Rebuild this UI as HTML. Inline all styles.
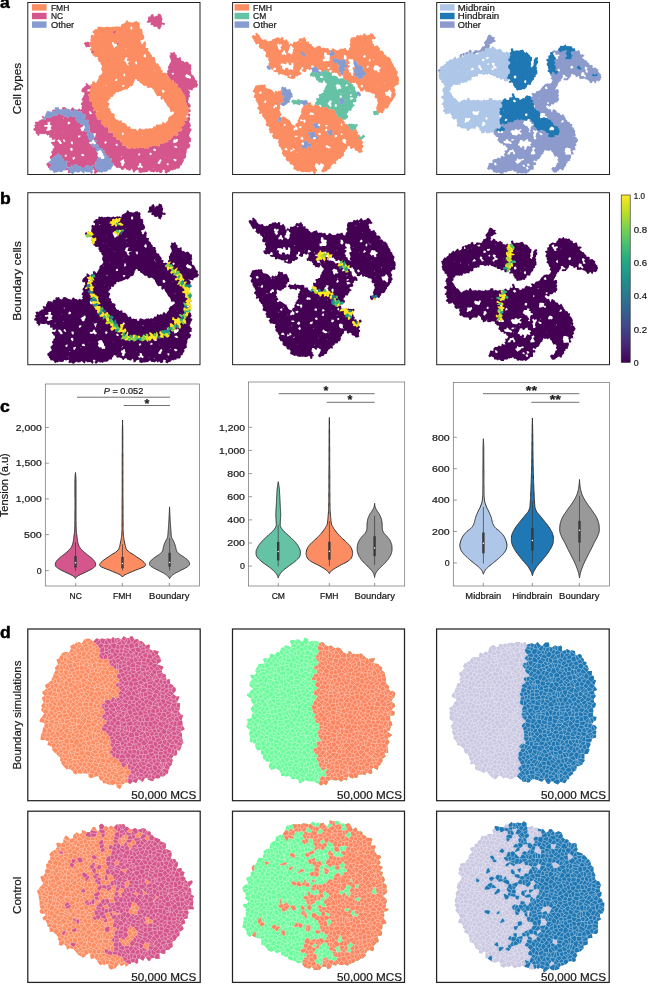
<!DOCTYPE html>
<html lang="en"><head><meta charset="utf-8"><title>Figure</title>
<style>html,body{margin:0;padding:0;background:#fff}svg{display:block}text{stroke:#1a1a1a;stroke-width:.22px}text.pl{stroke:#000;stroke-width:.45px}</style></head>
<body>
<svg width="648" height="984" viewBox="0 0 648 984" font-family='"Liberation Sans", sans-serif' fill="#1a1a1a">
<rect width="648" height="984" fill="#fff"/>
<g id="tissues">
<path fill="#d5568c" d="M55.2 110.4l-.3-.4 -1.9-.5 -1.4 1.8 3.3-.2zM60.5 113.8l-1.7-.8 -.3 .1 -.8 1.9 -1.5 .7 -.5-.5 -2.3 .6 -.6 0 -1.3 1.2 -1.7 1.1 -1.8-.7 -.8 .2 -1.3 .5 -.5 1.3 -1.3 .6 -.8-.7 1-2.6 -1.7-.8 -.8 .6 1.2 2.7 -2.3 .2 -.2 .8 -1.7 .4 -.7 1.7 -1.2-.9 -2.3 .8 1 2.2 -1.4 1.1 .8 2.2 -1.6 .9 0 1.6 2.4 1 -.3 1.7 1 1.1 .5 .1 1 2.2 1.5-1.2 .1-1.4 2.3 .4 2.7 0 .6-.7 2.1 2 1.6-.7 .4 .3 0 2.7 2.4-.2 .2 2.3 .7 .1 2.1-.6 .8 .3 -.4 .1 -.4 1.9 -.8 .4 -.8-.3 -2.2 .4 .4 1.4 1.1 .8 .2 1 1.4 .6 .2 .8 -.1 1.4 -1.5 .6 0 2 -1.3 .5 0 1.8 .8 .5 -.3 1.6 -2.2 1.6 .5 1.9 .8 .5 1.2-.4 .2-.4 2.2-1.4 0-.8 2.5-.6 .2-1.6 1-.4 1.6 1.8 1.3-.1 .5 2 1.3 1.4 .3 0 -.1 .3 1 2.1 .8 .2 1.4-.5 1.3 .8 -1.3 2.6 .4 1.7 1 .6 .3 .8 -.3 0 -2.3 1.7 .4 1.4 2.5-.4 -.6 2.6 1 .7 1.3-.7 .6-2.3 -2.2-.4 -.2-2.3 2.4 .1 .4-2.1 .5-.2 1.3 .7 1.6-.3 .4-1.5 1.8 .1 .9 1.4 .5 .1 .5 .6 2.2-.2 .6 1.4 2 .6 1.7-1.2 .5-1 1-.4 3.4 .4 .6 .4 2-1 .9 .2 -.6 2.1 1 .9 -.5 1 1.6 1.3 -1.4 .9 1 1.9 1.7-.1 .1-.5 1.9-1.7 -.1-1.1 -.4-.6 -1.3-.1 -.8-1.5 .1-1.1 -1.7-1.5 1.4-1.5 -.1-2 1.7-.7 .1-.3 -.2-1.4 1.6-1.5 .2-.7 -.7-.9 -.5-.3 -.2-1 .8-1.6 -1.3-1.7 -1-2.3 .5-1.3 -.2-.5 -2.4-.1 -.1-.7 -2.7-2.1 0-.8 -1.2-.3 -.8-1.4 1.1-.7 0-2.2 -.9-.3 -1.2-2.1 .3-1.1 -1.6-1.2 .8-1.4 -.3-1.5 -.5-.5 -1.6-.1 -1.1-.8 -1.4 .9 -1-.4 -.9-2.3 -.5-.2 .5-.2 .2-.9 2-.8 .5-1.3 -.6-.6 -1.8 .1 -.5-1.8 -.6-.5 -1.4 .5 -1.2-1.4 .1-.7 -1.7-1.3 .9-1.6 -2.2-1.8 -2.7 .4 -1.1-.9 -1.2 .2 -.4 1.2 -.7 .7 -1.1-.4 -.8-1.2 -1.5 0 -.5 .4 -1.4-1.6 -2 .1zM71.4 150.8l-1.1-.7 -.1-1.9 1.1-.5 1.3 .7 0 2 -.5 .2 -.2 .4 -.4 .1zM77.8 153.1l-.1 0 .1-.1zM84 143.7l.6-.3 0 .1 -.1 0zM59.9 143.8l-.9-.7 -.2-1.1 -.9-.7 -.6-1.3 1.8-.5 .9 1.2 .4 0 1.2 2 .1 .9 .2 0 -.1 .4 -.5-.2 -1.2 .5zM62.6 131.3l.6 0 -.3 .8zM70.2 123.3l-1.7 1.2 -.3-.1 -.7-1.5 1.1-1.4 1.5 .8zM54.1 133.3l.5-.3 -.4 .9zM39.4 125.9l.1 .3 -.2 .5 -.2 0zM47.5 124.9l.4-.6 -.5-2.1 .4 .1 1.3-.5 1.3 .1 -.6 2.8 1.4 .3 .5 1 -1.2 2 .9 1.3 .2 .7 -.6-.2 -3.2 1.2 -.8-.3 -.7 .3 .2-.5 -.3-.7 1.4-1.6 -.1-1 -.4-.7 -2.2 .4 -.7-1.1 .2-.8zM54.1 152.3l.1 0 0 .1zM61.4 124.6l-.2 .3 -.2-.4zM63.3 118.5l-.3-.5 .8-.4 -.1 .3 .4 .3zM73.1 143.4l-.6 .9 .1 .4 -.3-.4 -1.2-.4 -.4-2.4 1.8 .1zM65.5 141.9l-.6 .1 -1.9-1.1 0-1 .9-.8 .3 .1zM65.9 154.5l.7 0 .1 1.9 -.8 .4 -1.7-.8zM69.6 161.4l-.3 .3 -.8-.4 .5-.2zM78.3 137.5l-.2-1.6 .6-.3 1.8-.2 -.2 1.5 -1.7 .7zM75.8 141.6l.1 .1 -.1 0zM74.4 146.4l0 0 0 .1zM88.9 152.6l.3-.2 0 .3zM84.4 155l-.3 .8 -.6 .4 -2.2-.5 -.1-.9 1.3-1.1zM74.2 157l.2-.2 .8 .6 -.1 .5 -1.5 2 -.8-.3 -.3-2.1zM74.1 154.8l0 0 0 0zM79.7 157.5l.6-.1 .2 .6zM80.2 163.4l.1-.1 -.1 .2zM94.9 152.9l0-.1 0 0zM47.7 166.1l.6 1.9 .8 .2 .4-.1 1.8-2.4 -.1-1.7 -1.8-.5 -1.4-.9 -1.6 1.1 .2 1.6zM64.8 107.1l-2.3 .1 -.8 2.1 3.1 .8 .2-2.8zM81.1 102.9l-.2 1.6 .3 .5 .8 .4 .1 .3 -.8 1.8 .8 1.3 -1.9 .9 -.7-1.2 -.2-.1 -2.4 1.5 .3 1.7 1.2 .5 1.7-.9 .1-.3 .2 .3 1.2 .6 .2 2 3.4 .3 -.1 1 1.1 1.5 -1.4 1.5 0 1.5 1.2 .7 1.5-.6 1 .4 .2 1.2 -1.1 1.2 1.3 2 .5 2 .6 .4 -.2 1.1 -.8 1.5 .6 1.1 -.1 .9 .7 1.3 1.4 .2 .8-.3 0 .3 1.1 .4 2-.1 .1-.3 .5 .2 -.2 .2 .2 .5 -.3 .2 -.7 2.8 .1 .3 -1.4 .5 -.4 1.8 1.1 1 1.8-.4 .5 .3 -1 2.1 .2 1.2 1.5 .5 .6-.2 -.2 .2 .8 2.8 -.1 .6 1.5 1.1 1.1-.7 1.5 .9 0 1.3 1.6 .3 -.1 2.6 1.3 .2 .2 1.5 2.5 .6 -.3 2.8 1.2 .7 1.9-.7 .4 .3 -.1 2.3 -.9 .7 0 1.3 3.2 .2 0 2.3 1.4 .6 .8-.3 -.5 .6 .1 .6 1.5 1.4 1.3-.8 2.6 1 1.1 1.5 .9 .1 .4-.1 .4-1 2.1-.9 .4 1.5 2 .6 .2 .3 2.1 .1 1.1-1.7 .9 .5 .6 3.1 1.8-.4 .4-1 1.5-1.1 1.8-.2 0 2.6 2.4 .7 1.8-.8 .3 .2 4.5-.4 1-1.2 1.1-.3 .5 1.3 2.8 .2 .9 .5 1.9-1.3 1.3 1.5 1.4-1.3 1.4 1.6 1.6 .1 1.3-1.9 -.3-.6 .7-1.2 2.2 1.1 -1 1.5 2.3 1.7 1.4-1.7 1.5-.1 .4-.6 1.6-1.2 1.3 .5 .7-.9 2.1 0 .3-1 2.2-.1 .5 .2 .4-.1 1.2-1.6 -.3-1.6 .4 .2 1.6-.7 .2-1.5 .4-.1 .9-1.8 .6-.4 -.5-1.8 1.7-1.1 1.1-1.1 -.4-2 .4-2.3 .5-.4 -.2-2.2 .7-1 .1-.9 2-.2 .7-2.3 .5-.8 -1.8-1.8 .3-1.1 2-.4 -.3-1.9 .4-1.4 -.2-.4 -.8-.4 -1.4-2.4 .4-.2 1.3-3.3 1.1-1.9 .1-.8 -1.7-.9 -.3-.6 1.4-1.8 -.7-1.4 -.2-1.6 -1.3-.5 1.2-2.7 0-1.9 -.7-.8 1-1.8 -.3-1.2 -1.7-.5 -.8 .3 -.4 1.2 2 1.9 -2.6 1 -.1 .3 .8 1.7 -.4 .8 -2.5-.2 -.5 .2 .1 1.5 .6 .4 .6 1.1 -1.3 1 .1 1.1 -1.1 .4 -.8-.2 -1.5 1.7 1.6 1.5 -.2 1.1 -.6 .7 -1.2 .4 0 .5 -.2-.5 -.4-.2 -2.1 .3 -.3 .4 0 1.1 1.4 1.7 -1.1 .8 -1.3-.2 -.9 .1 -1-.4 -1.1 .5 -1.7 3.2 -1.3 1.1 -1.3-.4 -.9 .9 .3 1.4 -1.8 .8 -.4-.3 -2.4 .7 -.8 .9 -1.6-.7 -1.6 1.3 0 1.4 -.5 .7 -2.2-1.1 -1 .6 -1.4 0 -.5 .2 -1.4-.4 -1.3 .5 -.2 .5 -.3-.5 -.7-.2 -1.3 .7 -.6 1.7 -.9 .2 -.9-.9 -1.7 .9 -.9-.8 -1.6 .1 -.9-.6 -.7 .4 -1-.2 -2.1 1.1 -.6-.9 -2.7 .8 -2.7-.7 -1.1 .5 -.3 .5 -3.2-.8 -.5-.5 .2-.4 -.3-.8 -1.7-.9 -1.1 .3 -1.1-.4 -.6-2.9 -1.4-.9 -.3 0 .2-.5 -.2-.6 -1-1.1 -1.5 .6 -1.7-1.3 .3-1.1 -1.4-.7 -2 .1 .6-1.9 -.1-1.8 -.5-.1 -.3-.6 -2.6-.1 -.8 .5 -.7-1.1 .3-2.9 -.5-1.4 -2.3-.7 -.8 .6 -1.7-1.8 0-1.2 -.4-.3 -1.7 0 -.3-.2 -.2-.8 1.1-2 -.1-.8 -1.9-.5 -.6 .2 -1.9-.5 0-.8 -.8-1.8 0-.9 -1.2-2.1 .6-.8 .8-1.6 -1-.5 -2.6 0 -.4-.2 .2-.6 1.3-1.7 -.7-1.6 -1.2-.4 -.5-1 .3-1.7 -.4-2.4 -1.7 .1 -1.1-1.6 .9-.9 -1.6-4.5 1.8-.8 .2-1.4 -.8-1 -2.1 .3 -.2-1.2 .4-.8 2.1-.3 .1-.3 .7-.2 .8-1.5 -.1-.5 -1-1.3 -1.1 0 -1-1.1 -1.8-1.3 -.8 .7 .3 2.3 -1.9 .4 -.5 1.3 -1.2 .4 -.2 .9 -.7 .9 .3 2.1 .8 .3 1.7-.3 .2 2.6 -.6 .4 -1 2.6 -.4 .1 -.9 1.7 .9 1 .2 1.5zM120.2 148.4l.1 .1 -.1 .1zM88.9 111.7l1-.6 .8 .3 -.1 .2 1.6 2.5 -2.2 .1 -.8-1.3 .1-.3zM105.5 144.1l-1.2-1 .8-2 1.9 1.2zM99.3 138.2l.1 .4 0 0zM100.2 139.3l.2 .1 -.1 .1zM105.1 140.6l0-.3 .2-.1zM102.7 135.5l0 0 0-.1zM115.5 144.6l1-1.1 1.6 1.5 0 .3 -1.8 .6 -.7-.8zM166.5 169.1l0 0 -.2-.7zM166.3 168.4l-.1 0 0-.1zM139.2 165.5l-.2-2.4 .6-.2 1.6 .6 -.1 1.9 1.5 .7 .1 1.3 -1 .8 -1.4-1.1 -1.5 .8 -1.3-1.5 0-.3zM150 159.1l.1-.1 .1-.1 0 .1zM149.8 152.8l.9 0 .9 .5 .3 1 -2.3 .9zM130.2 150.1l-.2 .1 .1-.1zM123.8 163.7l-.4 2.1 -.8 .5 -1.6-1.1 .6-1.9 -1.2-.8 0-1.7 1.4-.4 1.3-1.1 1.1 0 -.2 1.8 .4 .4 .5 1.6zM120.7 157l.5-.1 .4-1 .4 .9 -1.1 .5zM112.8 152.7l.2-.1 -.2 .4zM111.8 151.8l0 0 0 0zM117.2 157l0 0 -.1 0zM116.9 165l-.2 0 .1-.2zM136.1 154.8l.2 .1 -.2-.1zM139 153.3l.9 .1 .5 .8 -1.4 1.6 -1-1zM144.4 155.8l-.2 .2 0-.1zM136.2 161.1l.2 .1 -.3 .2 0 0zM159.1 154.7l0 .4 -.4-.2zM153.1 149.7l1.3-1.3 1.3 .5 .3 2 -.4 .1 -1.9-.3zM159 148.2l.2-.5 0 0zM162.7 149.3l0 .1 0-.1zM153.2 167.9l.9 .4 -.1 .3 -.3 .1 -.2-.4 -.5-.2zM160.3 162.3l.2 .9 -1.4 .9 -1.8-.8 2.6-3.9 .9-.2 .8 1.2zM157.3 154.8l.1 0 -.1 0zM173.7 159.2l.9-.4 2 .9 -.1 .9 -1.3 .8 -1.8-1.5 -.1-.3zM174.2 147l-.4-1 .6 .2 1-.5 2.1 1.3 -.4 .7 -1.5 .3zM173.2 141.1l.1-1 1.3-.8 1.3 .2 .9-.7 1.4 1 -.8 1.9 -1.1 .5 -.1 .4 -2.6 .7zM168.3 165.3l-.3 .2 -.8-.4 -.8-1.5 1.7-.3 .7 .4zM169.8 158.2l.3 .1 .2 .5 -.7-.2zM179 163.3l-.1-.1 -.1-.1zM73.2 107.4l-1.1 0 -1.4 2 -.3 .7 .6 1.5 2.6-.3 .5-1.7 .3-.5zM89.9 42.4l-2.2-1 -1.1 .9 -1-.3 -1.1 .8 -.6 .8 1.2 1.5 -.1 .7 1.4 1.8 1.2-.8 1.8 .5 1-1.3 0-.5 -1.2-.8zM93.9 53.2l.3-2.4 -1.2-.3 -1.5 .5 -.4 2 1.2 .5zM112.6 32.1l.2 1 1.2 .9 1.4-.4 .9-1.8 -.3-.7 -1.6-.5zM116.3 43.4l.9 2 2.1-2.3 -.2-.6 -.9-.3 -1.6 .7zM148.5 16.6l-.5 2.3 .2 .9 -1.7 2.4 1.9 .7 .5-.3 2.2-.1 -.8 2 1.6 .7 .6-.3 .8 .9 .2 1 2 .2 1-.3 .2-.5 .1 .4 .7 .7 -.1 1 2.2 1.3 .5-.2 .7-2.2 .7-.3 0-1.9 .5-.5 2.2 .4 .7-.3 0-1.4 -.6-.4 -1.9-.1 -.6-1.2 .1-.7 .3-.2 .3-2.4 -.9-.8 .2-.6 -.9-2.3 -2.6-1 -.5 .6 -.2 1.7 -1.6-.1 -.6 .6 -1.1 .5 -.3 .8 .2-.7 -1.2-2.9 -2.1 .8 -.4 1.6zM153.9 18.3l.1-.1 0 .1zM170.7 52.3l-.5 .7 .3 2 -1.1 .7 .1 1 .7 1.8 .4 .4 .4 2.5 -.4 .3 -.4 1.5 -1 .6 0 1.5 -1.3 1.3 .4 1.1 -.2 .7 .4 1.4 -1.6 .9 .6 1.6 -1 1.4 .9 1.1 .4 1.6 1.5 .6 -.3 .7 .4 1 .7 .4 1.1 1.8 .5 .1 1.5-.6 .4 .3 .1 2.3 2-.3 .5 1.2 1.1 .2 .6 1.4 -1.1 1.4 .6 1 1.6-.2 1.5 1.1 1.1 2.6 1 .9 .5 1.4 1.1 .5 -.2 1.3 1.3 1.6 -.3 1.3 1.1 2.1 -1 1.1 0 .9 1.7 1 0 1.7 .4 .3 .5 1.4 1.8 .9 1.1-1.1 .3-1.4 -1-.8 -.4-1.2 -1.5-.6 .1-2.1 .7-.7 -.3-2.1 1.5-1 -.2-1.8 -.6-.7 1-1.7 -1-2.1 -1.5-.7 .2 0 .1-.3 1.2 .5 .6-.2 2.6 .6 .8-2.1 .9-.5 2.9-.5 .2-1.1 1.1-1.1 -.4-1 -1.1-.8 .5-2 -.3-.6 -.7-.2 -1.4-1.5 .1-.4 -1.6-3.1 -2-1 0-.8 -.2-.7 .3-.6 -1-2.3 1.3-.8 -.9-2.1 .5-.5 -.4-2.5 -1.3 .2 -1.9-2.4 -1.4-.6 -1.5 1 -1.7-1.5 -1.5 .2 -.8-1 0-2.6 -1.1-.4 -1.5 1.1 -1.7-1 .3-2 -1.3-.7 -1-2.5 -1.1 .1 -.8 .9zM186.5 74l3.7 2.1 .9 1.5 -1.1 1.4 -1.2-.9 -1.7 .1 -.8-1 -.8-.7 -.4-.6zM183.1 66.5l-.1-.1 .1-.1zM173.8 73l.1 .6 -.8 1.5 -1.6-1.4 1.2-1zM189.4 109.1l-1.8 1 1 2.2 2.2-.7 .1-.3 -.3-1.4z"/>
<path fill="#fc8d62" d="M98.4 26.4l-.6 .4 -.5 2 -.6 .4 -.9-.2 -1 .2 -.7 1.2 -1.5 .6 .2 1.9 1.4 .6 -.2 1.6 -.8 .2 -1.8-.5 -.6 .6 -.2 1.8 .4 .5 -.3 1.5 -.3 .3 .1 2.6 -.8 .3 -.8 2.4 1.3 .9 1.3 2 -1.2 .9 -.2 1.6 1.4 1 1.5-.4 .9 .2 -.1 2 -1.6 .4 .7 2.3 1.2 .1 .8 1.4 2.4-.4 .7 .6 -.6 1.9 1.1 .9 0 1.5 2.1 .8 -.1 1.2 .6 1.1 .7 .4 .2 1.4 -.6 1.4 -.2 1.3 1.4 3 -1.3 1.8 .1 .5 -.3-.1 -1.6 .9 -1.1 1.3 .5 1.4 -1 1.1 -.3 1.4 -.6 .2 -1 2.4 -1-.8 -.8-1.2 -1.5 .1 -.6 .4 .2 2 -1.6 .5 -.6 1.3 1 1.3 .1 .4 -1 1.8 -.3 .1 -.5 2.3 .7 1 -.1 1.1 -1.8 1 1.5 4.5 -.9 .9 1.3 1.8 1.6-.1 .3 2.2 -.2 1.8 .5 1.1 1.2 .4 .7 1.5 -1.3 1.4 0 1 .3 .3 2.7-.1 .6 .3 1.2-.5 .2 .4 .4 .1 -.1 .2 -.9-.3 -.7 .3 -1.3 2.2 1.2 2.1 -.1 1 .8 1.8 .1 .9 2.1 .6 .6-.3 1.9 .3 -.1 .7 -1.2 2.1 .3 1 .5 .3 1.9 .1 0 1.2 1.8 1.9 .9-.5 2.1 .5 .5 1.3 -.4 3 .8 1.1 .3 .1 .7-.5 2.9 .2 .4 .5 -.1 1.7 -.6 1.8 .1 .2 2.2 0 1.2 .7 -.3 1 1.8 1.4 1.5-.5 .8 .9 .5 .2 -.2 .7 1.5 1.1 .6 2.9 1.3 .6 1.1-.4 1.9 1.1 .7-.4 .1-.3 .5 .2 -.8 .4 -.5 1.1 .3 .5 3.2 .8 .3-.7 1-.4 2.9 .8 2.6-.7 .6 .9 2.3-1.2 .9 .2 .7-.4 .8 .7 1.7-.2 .9 .9 1.6-.9 1 .9 1.1-.3 .6-1.7 1.2-.8 0-.2 .8 .3 1.4-.6 0 .3 1.6 .4 .6-.2 1.4 .1 .9-.6 2.2 1.1 .8-1 -.1-1.2 1.5-1.2 1.5 .6 1-.9 2.2-.7 .4 .3 2-.8 -.2-1.5 .7-.7 1.3 .4 1.4-1.3 1.2-2.2 .3-1.3 .7-.4 1.3 .8 1-.2 1.3 .2 1.3-.9 -1.4-1.9 0-.9 .2-.3 2.5-.4 .6 .2 .8-.3 .7-.8 .2-1.3 -1.5-1.4 1.3-1.4 .7 .1 1.3-.5 0-1.1 1.3-1 -.7-1.4 -.6-.4 -.1-1.1 .3-.2 2.7 .3 .4-1 -1.5-4 1.4-1 .4-1.1 .7-.3 .3-1.4 -.9-1.9 1.6-.9 .1-1.6 -1.7-.9 -.5-1.4 -.4-.3 0-1.7 -1.6-1.1 -.1-.6 1.1-1.2 -1.1-2.2 .3-1.2 -1.3-1.7 .1-1.3 -1.1-.6 -.4-1.3 -1.1-1 -1.1-2.6 -1.6-1.1 -1.5 .2 -.4-.5 -.1-.3 1-1.3 -.6-1.7 -1.1-.2 -.6-1.3 -1.9 .3 -.1-2 -.6-.6 -1.9 .6 -1.1-1.8 -.9-.5 -.3 .1 .2-.6 -.5-1.1 -1-.7 -.1-1.4 -.8-1 -1.9-1.2 -1.1 .6 -1.4-.3 .5-2.5 -1.9-.3 -.2-2.3 -.3-.6 -1.7-1.7 .1-.3 -.4-.8 -.6-.8 -.5-.2 -.9 .1 -.5-.3 -.6-1.3 .3-1.4 -1-.9 .5-1.6 -1-1 -1.8 0 -.5-.7 .1-.9 -1.6-1.4 -.1-1.2 -2.3-2 .3-2.7 -2.4-.1 -.4-1.1 .5-1 -.3-1.2 .6-1 -.9-2.2 -.3-.1 -1.3 .5 -.9 2.3 -.3 .2 -1.3-.5 -.1-1.5 -1-1.2 1.1-1.1 1.1 .1 1-.9 .5 0 .6-2.5 -.7-.8 -.1-.8 -1.3-1.5 .4-1.5 -.5-.6 .2-2 -1.9-.9 -.8 .3 .2-1 -.5-2.9 .6-.7 -1-2.1 -1.5 0 -.8-1.1 -2.1 .3 -.3 .6 -2.4 .7 -1.1-.5 -2.3-.3 -.8-1.2 -.6-.4 -1.1 .4 -.3 1.3 -1 1 -2.1 1.1 -.6-.3 -1.3 1.8 -.2 1.4 -.2 .3 -1.3-1 -1.4 .4 -1.5-.8 -.8 1.1 -1.8 0 -.5-.5 -2.2 .5 -.3 .3 -2-.5 -.7 .2 -.6-.5 -2.6 .7 -.9-.4 -.7 .7 -2.1-1 -1 .5zM126.7 125.8l.2-.9 -1.9-1.6 -.2-.5 -2.7 0 -.4-.5 .2-1.5 -.7-.6 -2.5 .7 -.8-1.1 -1.5-.2 -1-.9 -.1-.8 -.8-.9 0-1.3 .6-.8 -1.2-1.5 -2.4-.5 -.5 .5 .4-1.1 -.4-1 -.9-.7 .4-1.2 -.1-.6 -2.3-1.1 .4-.9 .2-1.3 .6-.5 .1-1.8 -1.8-.9 0-.7 1.4-1.4 0-.7 1.4-.6 .2-2.2 1.7 .3 .6-.3 .7-1.1 0-1.1 1.8-.4 .4-1.9 .9-.3 .9 .5 2.2-1 .5 .2 2.9-1.6 .4 .1 1.7-.9 1.6 .5 .7-.4 .3-.8 1.2-.7 .3-1.2 1.5-.3 .4 .1 1.9-1.4 -.1-1.1 .9-1.4 -.2-.7 .6-.6 .9-2.1 1.2 0 .7 2 1.9 .1 .3 1.3 1.5 .6 .2 .3 1.5 1.1 .1 0 .4 .9 1.4 .5 .9-.3 1.2 .6 .5 1.4 1.5 .6 .8-.5 1.5-.1 1.7 1.2 .3 .6 1.1 .4 .3 1.9 .4 .2 1.1 2.4 1.8 2.3 1-.5 2-.2 .2 .2 -.4 2.2 .9 1.6 2-1.2 1.1 2.7 .6 .4 .2 1 1.1 .8 0 .7 1.4 2.3 1.7 1.2 -.1 .4 .9 2 -.1 1.3 1.1 .4 .8-.3 1.7 .2 .3 1.7 -3.2 2.4 -1.3 .3 -.4 1.1 -1.2 .9 .4 1.6 -1.3 1.7 -.4 .1 -1.2 2 -.4 0 -1.1-1.4 -1.7 .1 -.4 2 -.4 .4 -1.4-.7 -1.4 .9 -1.6-.7 -.8 .1 -.3 2.2 -2-.2 -.8 .6 0 .9 -1.5 .9 -1.3-.9 -1.5 1.2 -1.4-.8 -1 .6 -1.4-.2 -.7 .8 -2.1-.2 -.2-.3 -2.5-.7 -.9 .8 -.2 1.2 -1 .7 -.4-.1 -1.5-2.3 -1.1 .7 -1.4-.7 -.9 .6 -1.5-.7 .1-.7 -1.2-1.6 -1.8 1zM126.9 65l-.2-1.3 -.5-.4 -.2-1.2 -2-1.3 .9-1.4 .1-1.5 1.2-.5 1.4 .1 .6-.2 -.2 .3 -.2-.1 -1.2 2.6 .5 1 2.1 .1 1.6 .6 -.2 .2 -1.4-.7 -1.6 2.1 1.4 1.3 -.2 .6 -1.1 .3zM131.4 29.4l-1.1-.2 .3-2.1 .9-.8 1 1.4 -.3 1.5zM107.5 97.7l.1-.6 .3-.6 .1 .1zM113.5 61.5l.2-.4 .2 .2 -1 .4zM113 45.3l-.8-1.1 -.3-1.6 .6-.3 1.3 0 .7 1.9 2-.7 .2-.4 1.6-.9 .7 .4 .2 .4 -2.1 2.3 0 .5 -.9 .5 -2.1 1.7 -1.2-2.4zM114.5 30.8l1.2 .5 .4-.2 .1 .4 -1 1.9 -1.2 .4 -1-.8 -.2-.9zM107.7 59.2l0-.3 .2-.1zM105.4 53.6l-.1-.2 .3-.1zM106.2 46.6l-.7-.3 .8 .3zM99.5 34.8l-.6 0 -.3 .2 .2-.6 .5-.1zM95.4 50.6l-.2 0 .1-.2zM102.1 53l.1-.3 .7 .3 -.5 .2zM94.6 94.4l.2-.6 .2 .4zM106.6 85.7l-1.1-.5 .3-.2 -.2-.5 .2 .4 1.3 .6 -.3 .5zM102.8 75.8l-.1 .3 -.2-.5zM102.6 76.8l0 0 0-.2zM103.7 94.8l.2 .1 0 .3zM104.5 94.8l-.1 .2 -.2-.1zM102.9 109.8l-.1 .2 .1-.2zM109.2 57.4l-.1 0 .1-.1zM109 72.4l-.2 .1 -.1-.3zM118.9 73.1l-.1-.2 .1 .1zM121.3 52.4l.1-.1 .2 .4zM120.6 44.3l-.1 .1 -.2-.2zM114.4 61.4l.1-.1 1 .6 0 0zM117.3 76.5l0 0 0 0zM117.2 80.6l-.7 .5 -1.4-.2 .4-1.6 1.1-.7 .8 1.5zM120.5 28.3l-.1 0 0-.1zM125.8 52.8l.3-.4 .4 .2 -.1 0zM125.2 49.5l-.6-.4 1.2-.5 .4-.8 .3 .6 -1.2 .5zM124.5 38.1l.1 .4 -.1 .1 -.2-.5zM122.7 67.7l.2 .3 -.4 .1zM124.3 73.3l1.2 2.1 -1.6 1.2 -.4-.4 .1-2.3zM124.6 85.1l-.6 1.6 -1.3 .3 -.6-1.6 .4-.3zM128.4 57.1l-.1 0 0-.1zM116.4 133.5l0 0 .1 0zM124 133l0 1 -1.5 1.2 -.5-.5 -.1-1.2 .8-1.1zM124.2 137.7l0 .1 0-.1zM155.4 71.5l-.2 .6 -.4-.9zM136 49l-.2 0 .8-.3zM134.8 61.7l1.6-.2 .6 .6 0 1.8 -.6 .6 -.4-.1zM148.5 59.7l.2-.1 .9-.4zM145 54.1l.5 .2 .6 2.6 -.9 .7 -1.7-1 .3-1.6zM142.8 80.2l0 .1 -.1 0zM153.6 70.4l.4-.7 .4 1zM154.2 68.8l.2-.2 -.3 .5zM149 142.8l.2-.1 .2 .4 -.2 .4zM142 135.5l-.3-.2 .1-.3 .8 .5 -.3 .6zM174.3 104.1l-.1-.6 -.2-.2 .5 .2zM172.3 92.1l.1 .1 0 .1zM174.9 85.6l0 0 0 0zM162.2 90l.3-.2 1.4 .5 .9 1.5 -1.4 1 -1.4-.6zM163.9 81.3l-.8-.5 .9 .4zM158 79.5l.1 .1 0 .1zM155.4 79.1l.4 0 -.5 .1zM167.5 79.9l0 0 0 0zM171.5 91.4l-.2-.3 .2 .3zM152.6 131.3l0 0 -.1-.1zM159.3 131l-.1 0 0 0zM176.6 94.6l0 .1 -.1-.1zM181.3 103.9l0 0 0 0zM176.4 121.5l-.2 .2 .2-.4zM176.4 120.9l0 0 0 0zM180.2 124l-.1 0 0 0z"/>
<path fill="#869bcf" d="M58.7 107.4l-.9-.3 -1.3 .3 -1.2-.1 -.8 .8 .4 2.6 -.1 .2 -3 .3 -.4 .8 .4 .8 -.3-.1 -.6-1.3 -2.3-.2 -1-.4 -.8 .7 -.8 2.1 -.5 .3 -.4 2.2 -.4 .6 -.6 0 -1 2.7 1 .8 1.4-.6 .6-1.3 1.1-.5 .8-.1 1.8 .6 1.5-.9 .2-.4 1.4-1 .5 .1 2.2-.6 .6 .4 1.6-.7 1-2.2 1.5 1 .4 1.4 2.1-.2 1.5 1.6 .6-.3 1.3-.1 .8 1.2 1.2 .4 .9-.8 .4-1.1 .9-.1 1.1 .9 2.7-.4 2 1.6 -.8 1.5 1.7 1.4 -.1 .7 1.3 1.5 1.4-.4 .5 .3 .5 2 2-.2 .4 .6 1.4 .3 .5 1.4 -1.2 2.5 .3 1.2 .9 .6 1.5 .1 .4 .4 .3 1.4 -.9 1.5 1.7 1.2 -.3 1.1 1.2 2.2 .8 .3 .1 2 .9 .5 1.6-1 .1-1 1.2-.7 .4-1.8 .6-.3 .2-.4 -1.2-2 0-1.6 -1.3-.6 -1.9-.1 -.7-1.3 .1-.9 -.5-1 .7-1.4 .1-.9 -.2-.6 -.4-.2 -.4-2 -1.2-1.9 1.1-1.1 -.3-1.4 -1.2-.5 -1.5 .6 -.9-.6 0-1.3 1.3-1.5 -1.1-1.7 -.1-1.1 -3.2-.3 -.2-1.8 -1.5-.9 -2 1 -.9-.5 -.3-1.5 -.7-.6 -2.1-.3 -.5 .5 -.4 1.6 -2.2 .3 -1-1.7 -1.4-.7 -.5 .1 -.9-.3 -2.2-1.5 -.4 .2 -.2 2.3 -2.8-.7 -.4 .4 -.6-.1 -1.5-.5zM58.3 153.3l-1.3 .5 -.2 1.5 -2.5 .6 0 .9 -2.2 1.4 -.1 .3 -1.2 .4 -.3 2.1 -1.2 .3 -1.3 1.3 1.3 1.1 1.7 .4 .2 1.5 -1.8 2.3 -.4 .2 .7 2.4 2-.2 1 .6 1.6 2.4 1.5-1 1.2 .3 1.1-1 2.1 .5 .7-.2 .5 .2 1.5-.6 .5-1.3 2.2 .4 .3-.5 -.2-1.2 2.1-1.6 -.4-1.2 -.6-.3 -.3-1.8 1.2-2.3 -.2-.5 -1.2-.7 -1.5 .5 -.6-.2 -1.2-2.4 -1.2-1.3 -.5-2 -.4-.2 -1 .1zM71.5 165l-.7 .3 -.4 2.1 -2.5-.1 .3 2.5 .2 .2 1.9 .4 -.5 2.1 1.4 .6 .5 .6 1.3 .2 1-.7 .2-.7 1.5-.7 1.1 .4 .3 .5 2.7-.4 .5-1.3 1.8 .9 .2 .6 1.9 1 .8-2.3 2 1.3 1.2-.6 .7 .4 1-.1 1.7 1.8 .4-.2 1-2.1 -.9-1.5 1.4-.5 .6-1.1 -1.1-1 .6-2 -1.1-.4 -2.1 1.1 -.4-.5 -3.4-.5 -1.2 .5 -.5 1 -1.6 1.2 -1.8-.6 -.7-1.5 -2.2 .3 -.5-.7 -.5 0 -.9-1.4 -2-.2 -.4 1.6 -1.5 .2zM96.3 139.8l-1.9 .5 0 1.2 1.5 1.2 1.2-2 -.1-.4zM93 143.3l-1.9 .4 -.4 .5 0 .8 2.7 2.1 .2 .8 2.4 .1 .2-.1 .3 .1 -.3 0 -.6 1.6 1 2.5 .2 0 1.5-1.4 2.1-.6 1.3 .9 -.2 .6 1.2 1.9 .4 .2 .4 2.2 1 .7 -.3 1.8 -.7 .5 -.6-.2 -1.6 .3 -.7-1.8 -2.1 .2 -.2 .6 -1.7 1.5 .2 1.6 -1.7 .7 .1 2.2 -1.2 .9 -.3 .6 1.8 1.6 -.2 1 .9 1.6 1.4 .3 .3 .4 .1 1 1.3 1.4 1.1-.8 1.6 .9 1.3-1.3 .8 .4 1-.3 1.1 .1 1.7-1 .1-.8 .7-.3 2.4-.1 .3-.4 -.1-1.3 1.5-1.6 .2-.4 -.2-.4 1-.4 .1-2.2 -3.1-.2 -.3 .5 .1-1.6 1-.8 0-2.5 -.6-.4 -1.9 .7 -.9-.5 .3-1.4 -.1-1.4 -2.5-.7 -.3-1.5 -1.2-.1 .1-2.6 -1.6-.4 0-1.2 -1.7-1 -1.1 .7 -1.3-1 .2-.6 -.7-2.3 -.6-.5 -1.5-.5 -1.5 .8 -.7-.2z"/>
<path fill="#440154" d="M59.3 297.5l-.8-.4 -1.2 .4 -1.2-.2 -.8 .8 .3 2 -1.8-.5 -1.3 1.6 -.3 .8 .4 .9 -.4-.2 -.5-1.2 -2.4-.2 -.9-.4 -.8 .6 -.8 2.1 -.5 .3 -.4 2.2 -.4 .7 -2.1-.9 -.8 .6 1.2 2.8 -2.3 .1 -.2 .8 -1.7 .5 -.7 1.6 -1.3-.8 -2.2 .6 1 2.3 -1.4 1.1 .8 2.2 -1.6 1 0 1.5 2.5 .9 -.4 1.8 1 1 .5 .1 1 2.3 1.4-1.2 .1-1.5 2.3 .4 .2-.1 2.5 .1 .7-.7 2.1 2 1.5-.7 .5 .4 0 2.7 2.4-.3 .1 2.3 .8 .2 1.9-.5 .1-.2 1 .4 -.5 .1 -.4 1.9 -.8 .5 -.9-.3 -2.1 .3 .4 1.3 1.1 .9 .2 .9 1.4 .6 .2 2.4 -1.6 .6 0 2 -1.3 .4 0 1.8 .9 .4 -.4 1.7 -2.2 1.6 .5 1.9 .7 .4 -.2 1.9 -1.3 .4 -1.2 1.3 -1.7 1.1 .2 1.6 1.1 .7 .6 1.9 .7 .3 .8 2.3 1.9-.3 1 .6 1.6 2.4 1.4-1 1.2 .4 1.1-1.1 2.1 .6 .6-.1 0-.2 .6 .2 1.6-.6 .4-1.3 2.3 .5 .2-.4 2.4-.4 -.5 2.7 .9 .7 1.2-.7 1.4 .6 .4 .5 1.4 .2 .9-.7 .2-.7 1.5-.6 1.2 .4 .2 .4 2.8-.4 .5-1.2 1.8 .9 .2 .6 1.8 1 .8-2.4 2 1.3 1.2-.5 .7 .3 1-.1 1.8 1.8 .3-.1 1-2.1 -.9-1.5 1.4-.6 1.6 1.3 -1.5 .9 1 1.8 1.6-.1 .1-.4 1.8-1.6 1.3 1.3 1-.8 1.7 .9 1.2-1.4 .9 .4 1-.3 1 .2 1.7-1 0-.9 .8-.3 2.4 0 .3-.4 -.2-1.3 1.6-1.6 .2-.4 -.3-.4 .9-.4 1.5 .7 1.3-.5 -.8 .5 -.1 .9 1.5 1.4 1.2-.8 2.7 1 1.1 1.5 1.2 .1 .4-1.1 2.2-.9 .4 1.5 2 .7 .1 .2 2.2 .1 1-1.7 1 .5 .5 3.2 1.8-.4 .5-1.2 1.4-.9 1.7-.2 .2-.2 .2 .2 -.3 .2 .1 2.4 2.4 .7 1.7-.8 .4 .2 4.4-.5 1-1.1 1.2-.4 .5 1.4 2.8 .1 .9 .5 1.8-1.3 1.4 1.6 1.3-1.4 1.5 1.6 1.6 .1 1.2-1.8 -.3-.6 .7-1.2 2.3 1.1 -1 1.5 2.2 1.6 1.5-1.6 1.4-.1 .4-.7 1.6-1.2 1.4 .5 .6-.8 2.1 0 .3-1.1 3.2 0 1.1-1.5 -.2-1.3 -.3-.4 .6 .2 1.6-.7 .2-1.4 .4-.2 .9-1.7 .6-.4 -.5-1.8 -.8-.3 .7 .2 1.8-1 1.1-1.1 -.5-1.9 .5-2.5 .5-.3 -.2-2.3 .7-.9 .1-.9 2.1-.3 .6-2.2 .5-.8 -1.9-1.8 .4-1.2 2-.3 -.3-1.9 .4-1.4 -.1-.4 -.9-.3 -1.2-2.4 -.3-.1 .5-.3 1.2-3.2 1.2-1.9 .1-.8 -1.6-.9 -.4-.6 1.4-1.8 -.7-1.3 -.2-1.6 -1.3-.6 1.2-2.7 0-1.8 -.7-.9 1-1.8 -.3-1.1 -1.6-.6 .3-1.2 2-.7 .1-.2 -.3-1.4 -1.1-.7 .1-1.5 1-1 .3-1.3 -1-.8 -.4-1.2 -1.5-.7 .1-2.2 .7-.6 -.3-2.1 1.5-1 -.2-1.8 -.6-.7 1-1.7 -1-2 -1.8-.8 .5-.1 .1-.3 1.3 .6 .6-.3 2.5 .7 .8-2.2 .9-.4 2.9-.6 .2-1 1.1-1.1 -.4-.9 -1.1-.8 .5-2.1 -.2-.5 -.8-.3 -1.4-1.5 .1-.4 -1.5-3 -2.1-1 0-.9 -.3-.7 .4-.6 -1-2.4 1.3-.7 -.9-2.2 .5-.4 -.4-2.4 -1.2 .1 -2-2.4 -1.4-.6 -1.5 1 -1.7-1.4 -1.4 .2 -.9-1.1 .1-2.5 -1.1-.4 -1.5 1.1 -1.8-1 .3-2 -1.3-.7 -1-2.5 -1 .1 -.8 .9 -2-.7 -.5 .6 .3 2 -1 .7 0 1 .7 1.8 .4 .4 .5 2.5 -.5 .3 -.4 1.5 -1 .6 0 1.5 -1.3 1.3 .4 1.1 -.2 .7 .5 1.4 -1.7 .9 .6 1.6 -1 1.3 -1.7-1 -1 .5 -1.5-.2 .5-2.6 -1.9-.2 -.2-2.3 -.3-.6 -1.8-1.7 .2-.4 -.4-.8 -.6-.7 -.4-.2 -.9 .1 -.6-.4 -.6-1.3 .3-1.4 -1-.9 .5-1.6 -1-1 -1.7 0 -.7-.6 .2-1 -1.6-1.3 -.1-1.3 -2.4-2 .4-2.7 -2.3-.1 -.5-1.1 .5-1 -.3-1.2 .6-1 -.9-2.2 -.2-.1 -1.3 .5 -.9 2.4 -.4 .1 -1.3-.4 -.1-1.6 -1-1.2 1.1-1.2 1.1 .2 1-.9 .5-.1 .6-2.4 -.7-.7 -.1-.9 -1.4-1.5 .5-1.5 -.5-.6 .2-1.9 -1.9-.9 -.9 .3 .3-1 -.6-3.1 .7-.6 -1-2 -1.5-.1 -.7-1 -2.2 .3 -.2 .6 -2.5 .6 -1.1-.4 -2.3-.3 -.8-1.3 -.6-.4 -1 .5 -.3 1.3 -1.1 .9 -2 1.1 -.6-.2 -1.3 1.8 -.2 1.3 -.3 .4 -1.3-1.1 -1.4 .4 -1.5-.8 -.7 1.2 -1.9-.1 -.4-.4 -2.2 .5 -.3 .3 -2.1-.6 -.6 .2 -.6-.4 -2.6 .6 -.9-.3 -.8 .7 -2.1-1.1 -.9 .6 -1.7-.6 -.5 .3 -.5 2.1 -.7 .4 -.8-.2 -1 .1 -.7 1.2 -1.5 .6 .2 1.8 1.5 .7 -.3 1.7 -.8 .2 -1.9-.6 -.5 .6 -.2 1.8 .5 .5 -.4 1.5 -.3 .4 .1 2.5 -.7 .3 -2.1-.9 -1.2 .8 -.9-.3 -1.1 .8 -.6 .9 1.3 1.4 -.2 .7 1.4 1.7 1.1-.8 1.9 .6 .9-1.3 1.2 1.8 -1.2 .9 -.2 1.4 1.3 1 -.4 1.9 1.3 .5 .6 2.1 1.2 .1 .6 1.4 2.6-.4 .7 .7 -.6 1.9 1.2 .9 -.1 1.5 2.1 .7 -.1 1.3 .6 1.1 .7 .4 .2 1.4 -.6 1.4 -.2 1.3 1.4 3 -1.3 1.9 .1 .5 -.3-.2 -1.6 .9 -1.1 1.3 .5 1.4 -1 1.1 -.3 1.4 -.6 .2 -1 2.5 -1.1-.8 -.7-1.2 -1.6 0 -.5 .5 .2 2 -1.7 .4 -.5 1.3 -1 .1 -1-1.2 -1.8-1.2 -.7 .6 .3 2.4 -1.9 .4 -.6 1.3 -1.1 .4 -.2 .8 -.7 .9 .2 2 .9 .4 1.7-.4 .2 2.7 -.6 .4 -1 2.7 -.4 .1 -.9 1.6 .9 .9 .2 1.7 -1.5 .9 -.2 1.4 .2 .6 1 .4 0 .3 -.8 1.8 .8 1.3 -2 1 -.8-1.4 -2.4 1.5 -.6-.6 -2-.2 -1.2-1.6 -1 0 -1.4 1.9 -.3 .7 .2 .7 -.5-1 -.6-.5 -.8-.3 -.5 .2 -.9-.4 -2.1-1.4 -.3 0 -.1-.3 -2.3 .2 -1.1 2.3 -2.2-.7zM121.7 355.3l-.6 .2 .7-.3 .5-1.9 -1.2-.7 0-1.8 1.4-.5 1.4-1.1 1.2 .1 -.2 1.8 .3 .4 .5 1.6 -1.1 .6 -.4 2.1 -.8 .5zM121.4 346.9l.5 0 .3-1.2 .7 1.1 -1.3 .7zM121.6 338.4l-.6 .3 -.2-.5 .4 .4zM120.9 331.6l.2-.6 -.2-.5 .4 .1 -.2 .9zM123.3 326.6l0 0 0 0zM122.7 324.7l-.1-1.2 .8-1.2 1.4 .7 0 1.1 -1.5 1.2zM122.4 312.3l.1-1.5 -.6-.5 -2.5 .7 -.8-1.2 -1.5-.1 -1-1 -.1-.8 -.8-.9 0-1.3 .6-.8 -1.2-1.5 -2.4-.5 -.3 .6 -.3 0 .5-1.2 -.4-1 -1-.7 .5-1.2 -.1-.6 -2.3-1.1 .4-.9 .2-1.4 .6-.5 .1-1.7 -1.8-.9 0-.7 1.4-1.4 0-.7 1.4-.6 .2-2.3 .3-.1 1.4 .4 .6-.2 .7-1.1 0-1.1 1.8-.4 .4-2 1-.3 .8 .5 2.2-1 .5 .3 2.9-1.7 .5 .2 1.6-1 1.7 .5 .6-.4 .3-.8 1.2-.6 .3-1.3 1.6-.3 .3 .1 1.9-1.4 -.1-1 .9-1.4 -.3-.8 .7-.6 .9-2.1 1.3 .1 .7 1.9 1.9 .1 .3 1.4 1.5 .5 1.6 1.5 .2-.2 .4 1 1.4 .6 .9-.4 1.2 .7 .4 1.4 1.5 .6 .8-.5 1.1 0 .4-.2 1.8 1.2 .3 .7 1.1 .4 .3 1.9 .3 .1 1.2 2.5 1.8 2.3 .9-.5 2.1-.2 .2 .2 -.4 2.2 .9 1.6 2-1.3 1.1 2.8 .6 .3 .2 1.1 1.1 .7 0 .8 1.4 2.2 1.7 1.3 -.1 .3 .9 2.1 -.1 1.2 1.1 .4 .7-.3 1.8 .2 .3 1.9 -3.3 2.4 -1.2 .2 -.4 1.1 -1.2 .9 .4 1.6 -1.3 1.8 -.4 0 -1.2 2.1 -.5 0 -1.1-1.5 -1.7 .2 -.3 1.9 -.4 .5 -1.5-.7 -1.3 .8 -1.6-.7 -.9 .1 -.2 2.3 -2.1-.2 -.7 .5 0 .9 -1.6 1 -1.2-.9 -1.6 1.2 -1.3-.8 -1 .5 -1.5-.2 -.6 .9 -2.2-.2 -.1-.3 -2.6-.7 -.8 .7 -.2 1.2 -1 .8 -.5-.1 -1.5-2.4 -1.1 .8 -1.4-.7 -.9 .5 -1.5-.7 .1-.7 -1.2-1.5 -1.8 1 -1.1-1.4 .3-.9 -1.9-1.5 -.1-.6 -2.8 0zM122.8 275.4l.5-.3 2.2-.1 -.7 1.8 -1.4 .3zM121.5 269.1l-.6-.1 0-.1zM122.5 243l-.5-.5 .1-.3zM120.9 235.4l0 0 0 0zM120.9 234.1l.5 .2 0 .1 -.2 .1zM121.3 218.5l-.3-.1 .1-.4zM95.6 343.1l0-.3 -.3-.2 .5 .2zM97 338.2l-.1-.4 .8 .3zM95.4 334.5l-.7-.3 -.9-.9 -1.9 .4 -.3 .4 -1.2-.3 -.8-1.4 1.1-.7 .8 .5 1.5-1 .1-1 1.2-.7 .9 .9 0 1.1 1.4 1.1 .2 1.1zM94.7 327.7l.7-.3 .1-.4 -1.3-2 .1-1.5 -1.7-.6 .6-.3 0 .3 1.1 .5 1.9-.2 .1-.4 .7 .4 -.3 .2 .3 .5 -.4 .2 -.7 2.8 .7 .6 -.8-.3zM93.9 317.3l0 0 .2-.1zM97.4 306l0 0 -.1 0zM95.4 284.4l.2-.8 .2 .6zM95.8 282.7l0 0 0 .1zM74.9 347l.2-.4 .3 .5 .6 .2 -.1 .4 .1 .4 -.2-.1 -1.4 2 -.9-.4 -.3-2.2zM74.8 344.7l.2-.1 -.1 .4zM72.9 340.7l-.2 .5 -.5 0 -.1-.4 -1.1-.7 -.1-1.9 1.2-.5 1.3 .7 -.1 1.7 .2 .3zM75.1 336.5l.2-.2 -.3 .6zM73.5 334.8l-.5-.4 -1.2-.4 -.4-2.5 1.9 .1 .7 1.7 -.7 1zM73.2 318.7l.3-.1 .2-.5 -.2 .5zM74.3 309.7l-.2-.1 0 0zM60 336.6l.1-.3 0 .1zM60.6 333.8l-.9-.7 -.2-1.1 -.9-.6 -.7-1.5 2-.5 .9 1.2 .4 .1 1.2 2 .1 .8 .3 .1 -.2 .5 -.5-.2 -1.3 .5zM62 315.2l-.4-.9 .7 .3 -.3 .1zM59.5 302.9l.1 .1 -.1 .1zM46 322.2l0 0 0 0zM47.2 320.5l-.3-.8 1.4-1.5 -.1-1 -.3-.6 -2.3 .4 -.7-1.2 .2-.9 3.1-.1 .4-.5 -.3-1.9 -.3 0 .1-.3 .4 .1 1.3-.5 1.4 .2 -.6 2.8 1.4 .3 .6 1 -1.3 2 .7 1.1 .3 .1 .1 .9 -.6-.3 -3.3 1.3 -.7-.3 -.9 .3zM55.9 322.6l-.4 .2 -.5 1.3 -.4-.8 1.1-.7zM52.4 311l-.1 .4 -.1 0zM52.2 306.9l.1 .2 -.2 .1zM39.8 316.6l.3-.7 -.1-.2 .3 .5 -.2 .6zM54.7 342.3l.3-.1 .3 .4zM56.5 329.6l.7-.3 -.1 .2zM56 352.8l0 .1 -.1 .1zM56 352.6l0 0 .1-.1zM52 355.6l0 0 0 0zM66.4 332l.4 .2 .4 1.1 -.4-1.1 -.5-.2 -.7 .1 -1.9-1.2 0-1.1 1-.7 .3 0zM70.9 312.3l.1 1.1 -1.8 1.2 -.3-.2 -.7-1.5 1.2-1.4zM64.5 307.8l.5 .4 -1 .5 -.2-.3 .2-.2 -.4-.2 1-.5 .4-.8zM65.6 300.9l.6 .5 0 0 -.5-.1zM62.7 320.9l-.1-.1 .1-.1zM63.8 321.4l.3-.3 -.4 1.1 -.5-1.1zM71.8 319.1l-1-.4 0 0zM63.7 322.6l0 0 .1 .1zM70.5 327.2l.1-.1 .1 0 0 0zM63.9 348.8l-.2-.3 .3 0zM66.6 344.5l.9-.2 0 2.1 -.9 .5 -1.7-.9zM65.9 338.7l-.1 .2 0 0zM66 338.3l.1 0 -.1 .1zM71.3 344.8l.4 .1 0 0zM68.4 351.5l.3 0 -.4-.1zM69.8 351.1l.6 .3 .2 0 -.4 .1 0 .3 -1.1-.5zM67.4 355.8l.1-.1 0 .1zM68.2 356.4l.3-.1 .4 1 -.4-.1zM85.3 333.5l-.7 .3 0-.3 .8-.1 1.2 .6zM85.1 318.6l-.5 1.1 .3 1 -.3-.2 -1.4 .9 -1-.3 -1-2.4 -1.4 .3 -.2-.2 .3 .1 1.3-.6 .3-.9 2-.9 .5-1 1.3 .3 .5 1.4 -.4 1.2zM86 304l.1 0 -.1 .2zM90.5 279.3l.2-.4 .4-.1 -.4 .4 -.5 2.1 -2 .4 -.2-1.3 .4-.9zM79 327.5l-.2-1.6 .6-.4 2-.2 -.3 1.6 -1.7 .8zM78.8 305.7l-.2-.4 0-.2zM81.1 301l-.2 0 .1-.3zM78.2 321.5l-.1-.1 .1 .1zM78.2 342.9l.4 0 0 .3zM76 330.3l.8 1.4 -.4 .1 .2-.3zM79 331.8l-.1 0 .1 0zM83.8 338.7l-.1 .1 -.2-.2zM83.7 338.9l.1 0 -.1 .1zM80.9 353.4l.2-.1 -.1 .3zM80.8 347.6l.2-.3 .4 .8 -.9-.3 -.1-.4zM82.1 348.8l.2 .2 0 .1zM84.9 345.9l-.7 .3 -2.2-.5 -.1-.9 1.3-1.2 2 1.4zM90 302.6l-.5-1 1.1-.4 0-.3 1 .5 -.2 .2 1.6 2.6 -2.3 0 -.7-1.2 -.2 0zM93.7 300.9l-.2 0 .2-.4zM92.5 310l0 0 0 .1zM90.2 316.5l-.1-.1 .1-.1zM90.8 317.1l0-.2 .3-.1zM87.3 333.8l.2 0 0 0zM89.8 342.5l.1-.3 .2 .6 -.5-.2 -1 .4zM91.2 356.3l0 0 -.1 .3zM95.9 240.6l.1-.4 .3 .6 -.2-.1zM93.2 234.4l0 0 .1 0zM92.2 232.5l.2 0 .1-.1zM107.6 355.7l0 0 -.1 0zM107 351.2l0-.1 -.2 .2zM108.2 287.8l.1-.7 .3-.7 .2 .2zM107.3 275.7l-1.1-.5 .2-.2 -.2-1 .4 .9 1.3 .6 .9-.4 -1.1 .5 -.1 .8zM107.9 271.1l.2 0 -.4 .1zM109.5 262.7l-.2-.6 .7 .3zM108.5 249.3l-.1-.4 .3-.2zM107.3 242.5l-.2 .1 .2-.1zM107 236.7l-.8-.5 1 .4zM102.5 250.6l0 0 0 0zM102.7 243l.2-.3 .9 .3 -.6 .3zM98.3 234.7l.2 .1 -.1 .2zM99.5 224.5l-.1-.4 .3 .2 .3-.2 .3 .8 -.4-.2 -.7 .6zM101.3 347.3l-1.9 .1 -.7-.9 -.6-.3 -.1-1 .8-1.6 -1.2-1.6 1.4-1.4 2.2-.5 1.2 .9 .2-.1 -.3 .7 1.2 1.9 .5 .1 -.1 .3 .4 2 1 .7 -.2 1.8 -.8 .6 -.6-.3 -1.7 .4zM100.7 329.2l.6 .2 -.2 .1zM103.2 325.1l.5 .4 -.3 .1zM102.4 324.3l.1 0 .1 .1zM102.7 319l.2 0 -.1 .1zM103.4 318.7l0 0 0 0zM102.8 310.2l-.3 .1 1.1-.5zM103.7 299.7l-.1 .5 -.1-.1zM103.2 267l.2-.7 -.3-.8 .6 .3 -.2 .1 0 .9zM98.4 301l.1-.3 .1 .7 .6 .1 -.2 .3 -.9-.4 -.6 .3 -.1-.3zM98.3 334.1l.7-.1 -.3 .1 .1 .5zM100 328.6l0-.5 .3 .8zM106.1 243.8l-.1-.4 .4-.3zM106 249.8l.1-.1 -.2 .1zM104.8 284.9l.4-.2 .2 0 -.2 .4 -.5-.1 -.1 .4 -.2-.7zM105.1 299.1l0 .1 0 0zM105.9 331l1.9 1.2 -1.5 2 -1.3-1.1zM105.8 330.3l.4-.2 -.3 .7zM114.2 251.4l.2-.5 .1 .2 .6 .3 .1-.3 .2 .3 1.1 .5 -1.8-.6 -.9 .5 -.3-.1zM113.8 247.4l.2 0 .1 .1zM113.6 235.6l.1-.4 -.8-.9 -.3-1.7 .6-.4 1.4 .1 .7 1.9 1.8-.7 .8 2.4 -1 .4 -2.1 1.8zM110.1 247.4l-.4 .1 .2-.4zM110.7 252.9l0-.1 .1-.1zM117.6 245.7l.1-.3 -.1 .3zM118.6 244.7l.1 0 .1 0zM116.7 221.2l.3-.2 -.1 .6zM115.5 227.4l0 .1 0-.1zM119.1 232.2l.7 .3 .2 .5 -.2-.4 -.8-.4 .1-.2zM119.7 263.4l0 0 0 0zM119.7 262.9l-.1 .3 0 .1 -.2-.5zM118 270.6l-.7 .5 -1.6-.1 .5-1.8 1.1-.7 .9 1.6zM118 266.3l.1 .3 -.1 0zM113.5 342.6l-.3-.3 .6 .3 -.3 .6zM113.5 322.7l.3 .4 -.1 .1zM115.8 319.1l0 0 0 .1zM112.2 341.7l.2 .1 -.2 .1zM112.5 341.8l0-.2 .2 .4zM111.3 353.4l-.1-.2 .3-.3zM117.2 323.6l-.2-.1 .5-.2zM116.2 334.6l1-1.2 1.8 1.6 -.1 .4 -1.8 .6 -.8-.8zM117.9 347.1l-.2-.1 .3-.1zM118.2 346.6l0 0 .1 0zM117.7 355.1l-.4 .1 .2-.6zM156 269.3l.5-.4 .2 .1zM155.8 262.5l.1-.2 -.5-1.2 .9 .4 -.3 .1 -.1 .8zM155.9 257.9l.1 0 -.2 .1zM135.5 251.7l1.7-.3 .7 .7 -.1 1.9 -.6 .5 -.5-.1zM137.6 238.7l-.9 .5 -.3-.2zM136.6 219.5l-.9-.2 .1-.1zM127.4 253.7l-.5-.4 -.2-1.2 -2-1.3 .9-1.5 .1-1.4 1.3-.6 1.3 .2 .6-.3 .1-.4 .2 .4 -.4 .5 -.2-.2 -1.2 2.7 .5 .9 2 .2 0-.3 1.5 .7 .2-.1 .1 .3 -.3 .3 -.2-.3 -1.2-.5 -1.6 2 1.4 1.3 -.2 .6 -1.2 .3 -.8-.6zM129.3 221.9l0 0 0 .1zM130.9 219.3l.4-2.2 .7-.8 .3-.1 1 1.5 -.3 1.6 -.8 .2zM126 239.6l-.7-.5 1.3-.5 .4-1 .3 .8 -1.2 .5zM125.2 228.3l.4 .1 -.4 .3 -.2-.6 .3-.1zM126.9 219.4l0 .1 -.4-.2zM124.6 232.4l0 0 0-.1zM126.9 236.5l.1 0 -.1 .1zM126.7 242.6l.2-.4 .5 .5 -1.1 .1zM125.2 263.1l1.1 2.3 -1.6 1.3 -.5-.5 .1-2.4zM123.5 257.4l.3 .6 -.6 .2zM126.7 258.3l-.1 0 .1-.1zM124.5 272.2l.1 0 0 0zM134.7 262.6l.1 .1 0 .3zM133.6 236.6l.1 0 .4 .2zM132.6 225.6l-.2 .1 0-.1zM134.8 267l-.1 0 .1-.1zM134.8 263.3l.1-.1 .1 .1zM144.5 244.9l1.3-1 .5 .4 .6 2.6 -1 .8 -1.7-1zM143.7 269.5l-.1 .8 -.2 .2zM155.3 258.5l-.5 1.1 .5 1.2 -1.1-.4 .6-.9 .1-.8zM149.2 249.7l1.1-.5 .2 0zM149.9 254.4l0 0 0 0zM150.8 262.1l.1 0 -.2 .1zM154.7 273.3l-.1 0 0-.1zM158 344.9l-.1-.3 .4 .2zM154.4 340.8l-.6-1.1 1.4-1.4 1.3 .6 .3 2 -.4 .2zM139.9 355.4l-.2-2.3 .7-.2 1.6 .5 -.1 1.9 1.5 .8 .1 1.3 -1.1 .9 -1.3-1.2 -1.6 .9 -1.3-1.6 0-.3zM136.7 351.4l.2-.3 .4 .1 -.6 .3 -.3-.1zM136.7 344.8l.4 0 0 .2zM141.3 344.2l-1.6 1.7 -1-1.1 1.1-1.6 .9 .2zM138.1 335.7l0 0 0 0zM130.4 340.4l.6-.4 -.1 .3zM130.9 338.8l.3-.5 1.1-.5 -1 .5zM126.2 331.6l0 0 0 0zM124.8 327.6l.3 0 -.2 .4zM126.5 330.3l0-.1 0 .2zM127.4 336.6l.7-.3 -.1-.4 .9 .3 -1 .4 -.5 1.1 -.3-.2 .3-.4 -.2-.6zM136.3 321.9l-.3 .4 .2-.5zM133.7 325.9l0-.1 .1-.1zM135 322.9l0 0 0 .1zM142.3 325.3l.2-.5 .2 .4 .8 .3 -.1 .4 -.4 .3 -.3-.7zM142.3 332l.2 .1 -.1 .2zM145.1 345.7l.2 .2 -.4 .2 0-.2zM153.4 321.2l1.3-.5 0 .1 -1.4 .7 -.2-.5zM149.6 332.7l.4-.1 .2 .5 -.5 1.2 .3-.6zM151.6 336.3l-.7-.6 .9 .4 1.5-.8 0 .5 -1.1 .5 -.3 .6zM151.2 347.2l.1 0 -.1 .3zM150.6 342.7l.8 0 1 .6 .3 1 -2.4 1zM150.7 349.2l.2-.5 .2 .3zM148.8 357.3l1.1 .5 0 .1 -1-.4zM150.1 354l0-.1 .2-.3zM154 357.9l.9 .4 -.1 .4 -.3 .1 -.3-.5 -.5-.2 .2-.5zM174.9 294.8l0-.2 .2 .4zM174.9 294.5l0-1 -.4-.4 .9 .3zM173.8 282.2l0-.1 0 0zM175.6 275.6l.2 0 -.3 .1zM174.6 262.9l.1 .7 -.9 1.6 -1.6-1.5 1.2-1.1zM174.3 254.5l.1 0 .1 .2zM174.1 251.4l-.1 .1 -.2-.1zM174.1 251.4l0 0 0 0zM166.9 276l.1-.1 -.1 .2zM164.8 271.1l-1-.1 0-.3zM158.6 269.4l.3 .1 0 .5zM162.8 269.3l.2-.1 .2 .4zM159.3 281.7l-.5 .3 0-.1zM161.9 279.6l.1 0 -.1 0zM163.4 279.8l1.3 .4 .9 1.6 -1.5 1.1 -1.4-.7 .1-2.3zM158.7 274.6l0-.3 .2 .3zM168.4 266l.1 .2 -.1-.1zM170 267l-.2 .7 .4 .8 -.6 .1 .3-.6 -.7-1.3zM168.2 269.9l.1 0 .1 .4zM173.2 282.2l-.1 .3 -.2-.5 .1 0zM171.9 280.8l.6 .8 -.3-.1zM174.4 349.1l1-.4 2 1 -.1 .9 -1.4 .9 -1.8-1.5 -.1-.4zM174.9 337l-.5-1.1 .7 .2 1.1-.5 2.1 1.3 -.5 .9 -1.4 .3zM174.1 335.7l0-.1 0-.1zM173.9 331.1l.1-1.1 1.3-.8 1.4 .2 .8-.6 1.5 1 -.8 2 -1.1 .4 -.1 .5 -2.7 .7zM173.8 325.7l0-.6 .8-.5 .4 .4zM175.3 319.6l0 0 0 0zM167.2 359.4l-.2-1 -.7-.4 .7 .3 .4 .8zM165.1 320.5l.1 0 0 .1zM159.7 338.2l.3-.6 -.2 .7zM163.4 339.4l.1-.3 .1 .4zM162.2 328.2l0 .1 -.1-.1zM160 320.8l.2 .2 -.4 .2zM161.1 321.2l0 .1 -.1 0zM164.4 320.4l0 0 .1 0zM161.1 352.4l.3 .9 -1.6 .9 -1.8-.9 2.7-4 .8-.2 .9 1.3zM159.3 344.9l.8-.2 -.2 .5zM170 348.8l.6-.9 .6 1 -.7-.3zM169.1 355.3l-.3 .4 -.9-.5 -.8-1.6 1.7-.4 .8 .5zM180.9 329.9l.1 0 -.1 .1zM181 322.1l-.4-.8 .2-.2 .4 .2 -.2 .1zM180.5 314.2l.3-.2 .6-1.3 -.4 1.3zM181.4 303.6l.2 0 -.2 .1zM182.1 293.9l0 .3 -.2-.4zM183.4 288.5l.1 0 -.3 .1zM182.7 268.6l-.2 .1 .2-.3zM183.7 256.4l.3-.3 -.2 .6zM177.3 285l0-.3 -.4-.3 .6 .2zM177.1 311.1l-.1-.5 .2 .3 0 .6 -.4 .4zM177.9 316.9l0 0 0 0zM178.8 343.1l0 0 0 0zM179.1 343.1l0 0 0 0zM178.3 346.9l0 0 0 0zM179.1 352.8l.8 .3 -.2 .4 0-.3zM195.7 273.7l-.1 0 0-.1zM187.2 263.9l3.8 2.1 .9 1.6 -1.2 1.5 -1.2-.9 -1.7 0 -2-2.3zM185 255.3l.1 0 -.3 .1zM190.8 270.8l0 0 .1 0zM193.8 270.2l.2-.2 -.2 .3zM186.8 279.8l-.1 .2 -.1-.3zM194.9 275.8l-.1 0 .2-.1zM195.3 275.6l-.1 0 0 0zM187.5 307.8l-.8-1.9 1.4-1 1.9 1.9zM187.7 314.4l.1 .1 -.1 0zM188.3 325.6l.1-.2 .1 .1zM185 323.3l.1 0 0 0zM153.7 204.1l-2 .8 -.4 1.5 -2 .2 -.5 2.3 .3 1 -1.8 2.3 1.8 .6 .5-.3 2.3-.1 -.8 2.1 1.6 .7 .6-.3 .9 .9 .1 .9 1.9 .3 1-.3 .3-.7 .1 .5 .8 .7 -.2 1 2.1 1.3 .4-.1 .8-2.3 .7-.3 0-1.8 .6-.6 2.1 .5 .7-.3 0-1.3 -.6-.5 -1.9-.1 -.7-1.2 .2-.7 .3-.2 .3-2.4 -.9-.8 .2-.6 -.8-2.2 -2.7-1.1 -.4 .6 -.2 1.7 -1.7-.1 -.5 .7 -1.1 .4 -.4 1.1 -.1-.4 .3-.5zM157.4 215.2l0 0 0 .1zM154.6 208.3l.1-.3 .1 .4z"/>
<path fill="#fde725" d="M90.3 235.2l1 .7 2.4-.8 0-.3 -1.3-2.3 -1.4-.7 -1 .2 0 .1 -2-.8 -1.5 .7 .4 1.6 2.5 1.7zM92.2 241.1l-.4 2.5 1.2 .7 1.6-.6 .3-2.4 1.1-.5 .5-2.2 -.7-1 -2.5 .6 -.7-.6 -.3 0 -1.4 .9 0 1.6zM87 276.9l-.2 .7 1.6 1.9 2 .1 -.1 1.3 -2.3 .9 -.9 1.1 .3 2.2 .9 .1 .8-.5 .6 1.7 -1.1 .2 1.3 2.5 .5 0 -1 .9 1.2 1.9 2-.3 1-1.3 -1-1.2 1.8-2 -1.8-1.1 -.3 0 -.1-1.5 -1.1-1 .2-.2 .3-.7 1.4-.5 -.5-2.4 -1.3-1 1.2-1.6 0-.6 -1.2-1.2 -1.3 .2 -.9 1.4zM85.2 289l.9 .3 2.5-1.6 .1-.5 -1.2-.9 -2 1.1 -.7 1zM89.6 294.9l1.5 1.1 -1.1 1.4 .1 .4 2.4-.1 .7-.9 .3 .1 -.4 .1 1.2 1.7 1.8 0 .1 1.9 -2.2 .3 -.3-.1 -2.4 .7 1.7 2.9 .6 .3 .6-.6 0 .3 1.8 0 .7-1.1 2.5 1.1 1.5-.6 -1.3-1.9 -1.3-.4 .6-1.2 -.8-2.2 1-1 -2.1-1.1 .4-.2 -1.8-.8 -1-1.5 -1.2 .1 .1-.5 -3.3 .1zM94.1 307.6l1.3 .7 -.2 .2 0 1 2.2 .6 -.6 1.6 1.2 2.4 1.8-1.6 .6-2.2 .5-.2 -.2-2.4 -.4-.3 .6-.2 -.7-1.1 -3.1-.1 -3.2 .3zM100.9 317.3l1-.8 1.3 .7 .5-.6 1.5 1 1.2 2.6 .1 0 -.2 .3 .1 1.1 2.9 .3 .5-1.9 -.1-.8 .6-.4 -.7-1.4 -2.7-.4 .2-.1 1.1-2.7 -.3 0 .5-1.3 -.9-1 -2 .9 -.2 1.2 -.6 .2 -.4-1.7 -1.8-1.6 -1.9 2.2 .4 .8 -1.3 1 -.3 1.4zM104.3 314.4l-.1 0 0 0zM116.6 217.8l-1.9 1.6 -.8-.7 -1.7 .3 -.2 2.1 -1.9 .5 -.7 1.8 2.6 .7 -.6 .4 -.3 1.5 1.7 0 1.9-1.4 1.2 2.7 1.5-2 -1.1-1.6 .4-.9 1.4 1.2 0 .5 2.1 1.1 0-.1 .7 .3 2.4-.4 -.1-1.1 -3.1-2.1 -1.4 1.1 -.9-1.1 2-.6 1.2-3.7 -2 .2 -1.3 .8zM115 230.8l-1.5 1.2 1.5 2.1 2.2-.3 .7 3 2.1-4.3 1.7-1.3 -.1-1 -2.5-.5 -.4 .5 .1 1.1 -1.3 1.1 -2.2-1.6zM110.4 328l-.1 1.3 1 .8 -.4 .6 1.5 .1 2-1.7 1.8 .9 1.4-.8 .3-1.2 -2.4-1.2 -1.1-.2 -.3-.6 -.3 .5 1-1.6 .1-1.8 -.4-.2 -1.2 .7 .4-.5 -.2-.9 -2.8-.3 -.9 .9 -.1 .5 .6 1.9 -.3 .1 .5 .3 .1 .3 .5 0 1.5 .8zM118.3 330l-1.2 2.2 3 .4 .8-.8 1.6 .7 1.8-.2 .3 .3 1.3-.4 -.1-.1 .3-.2 .4-1.8 -1.3-2.1 -2.1 2 -.6-.1 .3-2.4 .4-.4 .2-.7 .1-1.6 -.7-.9 -2.2 .1 -.6 1.2 .5 2.4 -.9 1 -.1 .9zM126.8 337.5l-1.8 1.5 0 1.5 3.1-.3 0-2 3.7 1.3 .2-.5 1.7 .3 .5-.2 1.7-4.4 -3 .1 -1 3.7 -2.9-2.6 -1.1 .2 .4-3.8 -.9-.7 -2.4 4.6 1.8 .9zM123.3 334.3l-.5-.7 -2.3 .4 .9 1.3 1.4 .3 .6-.2zM137.5 336.4l-.2 1.7 .6 1.1 3-1.8 -1.3-1.7 -1.4-.1zM171 261.9l-.3-.5 -2.2 .7 -1.7 2 .9 1.2 1.4-.8zM169.6 266.3l-1-.8 -2.1 1.3 .8 3.6 .6 .2 .6-.4 .9-1.1 .3-.7 .2 .5 .7 .3 2.3-1 1-1.5 -2.3-.8 -1.8 1.3zM173.6 271.5l.8-.1 .1 1.8 2.1-.4 .2-1.4 -.3-.5 1.6-3.6 -4.4 2.8 -.7 1zM171.8 274.3l1.2-1.7 -.6-2 -.4-.2 -2 1.9zM177.8 276.9l1.2-1.2 1.2 0 -.4 1.7 -1.1 .4 .2-.5 -.5-.6 -3.2 1.9 -.3 1.2 .2 .4 1.6 .4 1-1.2 1.9 .7 -.6 1.7 1.2 .7 2.8-1.3 1.7-1.5 -2.1-1.9 .1-.3 -.6-2.9 -.8-.3 -.3-.6 -1.2-.9 -1.7 1 -1.1 0 -1.9 1.8zM174.5 320.7l-.6 1.2 .9 3.4 .2 .2 1.2-2.1 .5-.1 -.2 1.8 1.6 .5 .6 2.6 1.6 .5 .5-.9 .1-2.3 -.9-1.1 1.1-2.2 -1.2-3.8 -2-1.3 -.7 1.4 .1 .4 -2.3 .1 -1.4-1.8 -1.1-.2 -.5 2.8zM170.2 325.1l-.1 0 -.4 1.6 3.2 2.3 1-2.5 .4 .1 .3-.9 -3.4-2.7 -1.7 .8zM160.5 334.4l0 1.2 -.4-.1 -.8 .9 .1 1.1 4.4 .6 -.3-2.2 -.3 0 .5-.6 0-1.8 -1.6-.7 -.6-1.3 -1.2-.4 -1 .7 .1 1.8zM166.5 335.6l0 1.4 .6 .8 2.2-1.4 .2-.3 -.4-2.4 -1.4-.7 0-1.5 -.3-.4 -3 1.9 -.4 .8 2.4 2zM149.4 332.2l-.3 1.2 1.4 1.9 -1 .8 0 .2 -1.7 .2 .1-.7 -1.4-.4 -1.5 .6 -1 2.5 1 .8 1.7-1.1 1 1 .3-.1 .1 1 2.1 1.1 .6-1.3 .2 .2 1.1-1.9 1.9 2.4 1.4-1.8 -.1-.4 1.4 .7 .9-.8 -.8-2.4 -1.5-.1 -.5 .2 -1-.7 -2.5-2.6zM151.7 336.3l0 0 0 0zM182.1 284.4l-1.6-.8 -.8 .4 -.2 1.9 1.7 .6 .9-.3 .4 .3 -.3 .2 .5 1.6 1.4 .4 .3 2.1 -2.1 .4 -.2 1.6 3.1 .6 0 2.7 -.4 1.3 2.5 .6 .1 1.4 -.6 .1 -1.6 2.2 1.4 .9 .4-.3 0 .4 -2 .4 .7 2.7 .6 .1 2-.8 1.9 1.8 -3.9 1.3 0-.3 -1.8-1.2 -1 1.4 -.2 2.1 1.5 1.8 .4-.4 .2-.7 2.7-.2 .7-.8 2.7-.4 .3-1.9 -.9-.7 .7-1.4 -.6-1.4 -1.4-.6 -.1-1.4 2.6-.7 .1-.3 -.4-1.3 -1.2-.5 -.2-1.5 -1.6-1.1 .3-.2 -.3-1.7 -.5-.2 -.6 .3 0-1.3 .5 .4 1.3-.6 -.6-2.9 .8-.6 -.4-1.7 .1 0 .2-.4 -1.8-1.8 -1.3 .7 -1.4-1.2 .2-1.4 -.1 0 1.6-1.9 -.1-.8 -1.8 0 -1.8 1 .4 1.4zM186.2 308.5l0-.2 .1 .1zM184.2 313.4l-2 1.9 .5 1.1 .8 .1 1.2-.6 1.8 .5 .9-.2 1-1.7 -.4-.3 1.1-2 -.6-.7 -3.7 1.1 .7 1.2 -.7 .4zM181.4 320.4l3.8 3.3 .5 .1 .6-.3 -.3-2.4 .1-.2 -1.4-2.5 -.7-.1 -1.2 .7 -.1 .9 -.6-.2z"/>
<path fill="#35b779" d="M93.2 277.5l2.1-.2 -.2-2 -1.1-.5 -2.6 1.9 .1 .5zM95.5 298.5l-.8-1.6 -1.6-.3 -1 1.1 .1 1 1.5 1.5zM97.5 306.1l1.4-1.9 -2.1-1.2 -.8 .9 1.1 2zM100.7 307.7l-.1 2 -.6 .2 -.3 2.4 1.9 1.1 1.2-2.3 -.1-.7 .8-.6 .1-1.4 -1.2-1.9 -.2-.1zM102.6 319.7l.4 .1 3-2.5 .2-.3 -1.5-2.3 -1.8 2zM109.2 320.1l.1 .1 -.9 2 .9 .9 .3 .1 1.4-.8 .9-1.5 -.3-.1 .5-.5 -.1-1.4 -2.8-.1 -.2 .3zM115.7 325.5l-.2 1.7 1.4 .8 .8-.6 .5-2.2 -.7-1.2zM119.4 224.9l0-.3 -3.2-2.1 -.5 .8 1.6 1.8 1.3 .3zM121 230.7l.1 .9 1.5 .1 1.3-.4 .3-1.3 -2.3-1.1zM177.6 277.1l.1 .8 .4 .9 1.6-.6 .8-3.4 -1.6-.1zM184.6 311.9l.8 .6 3-.4 -.4-1.2 -3.2-.7 -.5 .1zM179.9 318.9l.6 2.5 .8 .3 .8-.4 .8-1 .3-1.4 -1.6-1.7zM175.1 324.6l-1.2 .7 -.4 1.2 1.4 1.9 1.5-1.3 -.3-2zM167.6 334.3l1.6 .9 1.4-1.6 -.4-1.7 -1.1-1 -2 1.1zM131.2 338.7l1.3-.6 .1-2.6 -2.7-.8 -.7 1.3zM136.2 340.7l2.3-1.7 0-.3 -.5-1.1 -3.2 1.1 1.2 1.9z"/>
<path fill="#5ec962" d="M118.9 232.5l.3-.6 -.4-1.8 -2-.6 -1.2 1.4 1.8 2.3zM113.6 322.9l.2-.9 -1.6-2.7 -1.2 1.9 -.6 2.2zM113.1 326.5l.4 .5 3 .7 -.4-1.9 -2.7-1.5zM118 326.2l-1 1 -.6 1.9 1.7 1.9 1.8-1.4 .2-1.7zM154.7 336.6l.7-.4 .5-2.2 -1.8-1.2 -.8 2.3 -.1 1zM135.1 334.8l-.7 3.9 .7 .6 2.9-.8 -.4-2.8zM146.2 338l-.9-.8 -2.4 .8 -.4 3.1 2-.5 1.1-1zM129.4 341.6l1.3-1.1 .4-1.9 -3.5-1.2 .4 3.1zM167.9 266.2l2.3 .8 .5-.1 1.7-.7 .1-1.6 -3.8-.4 -1.5 .4 .2 1zM171.7 271.6l.4 .1 1.9-1.4 -1-2.9 -2.2 1.6zM173.9 273l-.5 .4 -.3 1.8 2.4 .4 1.4-1 1.2 .2 1.6-1.7 .1-1.7 -.9-1 -2.1 .5 -.3 1.5zM184.6 305.9l.4 .2 2.4 .4 -1.4-3.3 -2.1-.9 -.9 .3zM187.4 310.6l.3 1.1 .7 .9 1.5 0 1-2.9 -3.1-.2zM181.7 317.8l2.1-1.5 -.9-1 -2.3-1.4 -1.1 .2 -.6 1.4z"/>
<path fill="#31688e" d="M119.7 232.5l.3 1.1 .4 .6 1 .3 1.6-3.3 -1.2-.1zM105.8 312.1l.3-1.8 -2.6-.6 -1.3 .3 -.2 .4 .1 .5 1.5 1.6zM111.1 315.7l-1.2 0 -1.3 2 .5 1.4 2.8-.2zM180.9 318.1l1.7 1.4 1.7-1.2 0-2.7 -1 0zM157.5 338.3l2.8 .8 .2-1.2 -.2-1 -3.2-2.3 -1.1 .6z"/>
<path fill="#90d743" d="M87.1 237.6l1-.5 1.9 .3 1.4-1.7 0-.4 -1.4-.8 -.5 .2 -1.9-1 -2.3 1.4 -.3 .7zM106.2 317.7l2.5 .3 1.5-2.7 -2.2-1.6 -1 .8zM122.4 332.6l-.3 1.7 .3 .7 2.4-2 .8-1.8zM124.6 339.8l3.1-2.9 .1-.4 -.1-1.1 -1.7-.9 -.9 .6 .1-.2 -1.4-.3 -.8 .4 -2.4 4.4 2.2-.4 .6-.4 -.2 .7zM133.6 340.7l.2 1 2.4-1.2 -1.1-2.4 -.6-.4 -.4 .2 -.1 .5 -2-.8 -1.2 .4 -.4 1.8zM169.3 265.7l0-1.3 -1.2-.9 -.4-.1 -2.7 1.9 .3 2 3.7-1.3zM183.6 315.7l.5 3.5 .6 .2 1.6-1.5 .2-1.9 -1.7-1.1zM183.2 324.6l1.9-.9 -3.2-3.2 -1.2 .4 .1 1zM170 329.8l-1-2.4 -.6-.3 -1.5 1 -.1 2 2.4 .7zM171.1 330.9l1.7 .8 1.1-.2 .1-1.4 -1.8-1.7 -1.4 1.3zM147.5 336.6l1.3-1.5 -1.9-1.6 -1.3 .4 .3 1.9zM140.5 340.3l2.3 1.2 1.1-.8 -.6-1.7 1.4-.2 .4-3.4 -1.3-1.1 -1.6 1.6 -.1 1.3 -.4-.3 -.9 .3z"/>
<path fill="#c8e020" d="M175.2 270.4l-.8-.4 -2.6 1.1 .4 1.7 2.1 .4 .5-.3zM90.6 278.6l2.4 1.7 1.7 .2 -1.6-3.3 -1.7-.7zM177.1 285.1l3-.9 .7-.5 .2-1.9 -.9-.8 -1.4 .3zM189.1 292.1l-1.7 1.5 -.7 2.7 .5 .2 3.7-2.3 0-1.7zM105.3 323.4l1.9 1 3.4-1.3 .2-.5 -1-1.1 -3.3 0 -1.3 1.7zM175.7 329.3l-.5-1.3 -1.8-1.7 -1.5 2 .1 .3 2.1 1.5zM157.9 336.2l0-2.2 -1.3-2.6 -1 2.3 -.1 3.1 1.5 .4zM163.3 334.9l3.3 2.3 .5 0 0-1.9 -3.4-2.8 -.7 .5zM148.2 338.8l-1.3-1.7 -1.8 .9 .1 1.5 2.6 2.5 .7-1.2z"/>
<path fill="#21918c" d="M94.4 274.5l-.8-1.1 -2.2 .8 -.9 1.7 1.1 1.3zM90.3 301l1.5 .5 2-.4 .5-1 -1.6-1.5 -2.7 1 .1 1zM94.5 303.7l-1.3 1 -.4 1.3 1.3 .7 3.8-.9 -1.2-2.2zM99.1 315.5l3.2-1.9 -.1-1 -2.1-.6 -2.2 1.6zM111.6 318.9l.9-.2 1.4-1.3 -1.8-1.8 -2.2 .3zM177 324.6l-1 .3 .3 2.3 1.1 2.2 1.1-1.6 -.1-2.9zM166.7 333.3l2.7-1.8 0-1.9 -2.4 .2 -.4 .4 -1.7-.6 -1.1 .8 .8 2.9 1.8-.4z"/>
<path fill="#20a486" d="M182.7 280l-2.1 1.7 -.1 2.7 1.3 1.6 2.2-2 -.3-2.5zM188.8 284.8l-4-.6 -.6 1.5 1.6 1.7 2.6-1.6zM191.7 294.8l-1.1-1.3 -2.7 1.5 .6 2.5 1.7 1.5 1.1-1.9zM184.7 314.7l1.5-1.1 -.7-1.3 -.6-.4 -1.1 1 .1 .9zM113.6 323.3l.1 1.6 2.2 .8 2-1.2 -.4-.9 -1-.3zM173.5 328.1l.1-.3 -3.3-.9 -2 1.1 .4 2 2.2 0zM115.2 329.8l-.1 1.8 2.2 .5 1.8-2.4 -2.2-1.3zM162.2 330.1l-1.7 1 1.4 2 2.5 1.2 .8-.4 .3-.4 -1.2-2.7zM123 334l.1 1.6 1.3 .8 1.1-.5 -1-3.3zM141 340.5l.6-2.7 -1.2-.3 -2.4 1.1 .1 .4 1.7 1.7z"/>
<path fill="#287c8e" d="M86.5 285.4l-.4 1.5 1.5 .8 3.1-1.3 -.8-2.4 -1.1-.1zM186.8 285.2l-.3 .9 2.5 1.8 2.8-1.1 -.4-1.8 -1.1-.7 -1.8 0zM87.9 292.6l2 .9 .1-.2 3.8 .7 -.9-2.5 -1.8 0 -1.2-1.9 -2.1 1.3 -.2 .4zM93.2 300.8l.4 .3 3.8 .3 -1.2-2.7 -1.4-.3 -1.6 1.5zM184.4 307.8l2.1 .9 1-.3 .2-.4 -1.1-2.3 -.3-.1 -1.8 0zM116.4 321.2l-1-2.2 -.3 .2 -1.6 3.1 .2 1.4 .3 .2 2.4-.3z"/>
<path fill="#fc8d62" d="M255.4 33.2l.3 2.5 -1.2-.1 -1.3-.7 -1.5 1.3 1.1 2.8 .5 .2 .2-.2 .3 .1 -.4 .2 1 2.5 .4 .1 1.2 2.5 .8 .1 .8-.8 1.3 .3 .3 1.2 -.7 1.9 1.5 .9 .3 .8 1.4 .3 1.5-.4 .4 2.3 1.4 .1 .3 .9 1 .8 -1.1 3.5 1.5 1.2 2.2 .3 -1.1 1.9 1.1 1.4 .5 1.3 -1.1 1.2 .4 2 .4 .2 .4 1 .8 .6 .2 1.7 2.4 .8 .8-1.8 1.2-.6 .7 .3 .2 .3 .1 2 -2.8 .1 .3 1.4 2.5 .7 .7-.3 1.6 .6 -.1 1.5 .9 .9 2.1-1.2 1.2 1 .8-.3 1.7 1.1 2.7 .3 -.1 1.9 2.8 .4 .2 .3 1.8 .5 .8-.3 .6 .3 1.8-1.1 0-1.6 .6-.2 1.5 .4 1.5-1.4 .7 .2 1.8-1.5 .1-.3 -.6-1.2 -1.2-.1 -.1-2.4 1.5-.2 .2-1.7 .7-.9 .9 .3 .4 .8 -.8 1.5 -.7 .6 .1 .8 2.1 1.1 1.2 .1 1.1-1 0-1.7 1.7-.7 1.1 1.6 2-1.5 0-.9 -.3-.3 .7-2.4 .5-.2 1.7 1.2 .3 .8 .5 .2 2.4-.1 1.3 .6 -.4 1 .6 1 2.4 .2 .4 1.9 .7 .3 .7 0 1.1-.4 .4-1.3 .9-.5 1.5 .4 .8 1.5 1 .3 .4-.2 1.1-2.1 2 .3 -.2 2.2 .5 .5 .7 .2 1.7-.7 .7 .6 1.7-.3 .5 1.5 .9 .4 .2 1.7 2 .1 1.1-1.4 -1.2-1.7 -.2-1.3 -.9-.7 -.7-2 .8-3.5 -1.4-.4 -.6-1.8 -.8-1 -1.8 .4 -.6-.2 -.6-2 -.7-.5 -.4-1.2 1.5-1 1.7 1.4 1.3-1.1 .8 1.5 1.7-.5 .6 .3 .4 1.1 1.2 .6 1-1.7 1.1-.7 -.3-1.3 .4-.6 -.1-2.2 1.9 .3 .9 2.2 0 1 -1.2 1.3 -.2 .7 .3 .7 1.6 1.2 -1.7 1.2 -.2 1.4 1.9 .6 -.3 1.4 -2.2 .3 -.5 1 .7 1.5 -1.5 1.5 -.2 .5 .3 .5 -.2 1.3 -1.3 1.6 1 .9 .2 .6 0 1.7 .6 .3 1.4 2.7 1.6-1 1 0 .7 2.2 1.3 .2 1.3 1.3 1.5-1.3 1.5 .6 1.5-.8 .3 .1 .4 1.4 1.3 1 -.2 1.3 .6 1.1 1.1 1.3 .9 .5 0 2 2.5 .4 .5-.2 .3-.7 1.7-1.2 .4 1.9 .9 .8 1.6-.8 .7 .8 2 0 .3 1 2.8 .5 .9 .4 .5 1.5 -.5 .7 0 .8 1.1 1.4 2-.1 -.9 2.2 1.2 1.7 -.4 2 -.7 .6 .1 .6 -.9 2.5 .2 .2 .4 2.7 .4 .3 .1 1.3 1.7 1.1 1.3-1.4 1.5 1.2 1.4-.5 .2-1.5 1.1-.8 .2-1.8 .5-.2 .3-.6 0 .3 .5 .2 1.6-.1 1.4-2 -.1-.4 .7-1.5 .7-.4 .2-1.6 1.5-.9 .1-.5 1.2-1.3 0-.8 1.6-1.3 -.2-1.5 1.3-1.2 -.1-1.5 -1-1 0-.6 .8-1.6 -.4-.9 -.5-.4 -.5-1.7 2.2-2.4 .9 .4 1.4-.9 0-2 -.3-.4 .7-1.4 -.3-2.2 .2-.5 -.9-1.5 -.8-.3 -.3-1.1 .6-1.1 0-1.1 .4-.7 -2-2.2 -.6-2.3 -1.4-.5 -.1-1.7 -.6-.6 -.5-1.4 -.8-.3 -.1-1.5 -.8-.6 -.4-2.3 -.4-.1 -1.8-1.9 -1.4 .3 -1.6-2.3 -1.5-.3 .1-1.5 -1.3-1.8 -.4-.3 -2.4 0 -.4-1.2 .4-1 -1.9-2 -.1-.8 -.6-.6 -2.7 1.1 -.7-.6 -.1-1.5 -1.6-.8 .4-1.9 -.9-1 0-.7 1.1-1 1.3 .6 1.7-.9 .1-.4 -1.8-1.8 0-.6 -1.1-1.4 -.3 0 -.4-.9 -1.9-.2 -1 1.6 -.7 .2 -1-.1 -.6 .7 -1.1-.3 -1.4-2.2 -.9 .7 -.4 .1 -1.4 2.1 -1.2-1.5 -1.8 1.3 -.6-.6 -1.4-.1 -1.3 2.2 -.6 .3 -.1-.3 -.7-.3 -.9 .4 -1.5-.1 -.9 1 -.4 .1 -.6 2.5 .3 .3 0 2.3 -.9 .7 .4 1.2 .9 .9 -1.7 2 -.4 2 -.7 .4 -1.1-.4 -1.1-2.3 -.3-.2 -1.5 .7 -1.9 .4 -1-.4 -1.5 .8 -.3 .6 -1.3 .4 -1-.1 -.6 .1 -3.1-2 -1.2 .4 -.9 1.6 1.5 1.6 1.9 1.1 -.5 1.7 -1 .2 -.6 .8 -1.2 .5 -1.2-.1 -.7 1.4 .6 1.7 -.6 1.8 -.6 .3 -2.6-.3 -1.8 .7 -1.5-.8 .1-2.2 .4 .2 1.3-.3 .4-.6 -1.1-2.8 .4-.2 -.1-2 .8-.7 1.7 .7 .1 1.8 .8 .3 2 0 .3-.5 -.1-1.4 1-.6 -.3-2.4 -1.1-.2 -.3-.9 -1.6-1.1 -1.4 .6 -1.5-.9 -.9 .1 -.8-.1 -1.1 .5 -.7-.6 -1.1-2.1 -3.9 1.2 -.8 1 -1.4-.2 -.6-1 -1.4-.7 -.1-1.4 -.7-.5 -2.1-.1 -.2-.4 .3-1.6 -.2-.3 -2.7 .2 0-2.1 -.8-.7 -.9-1.8 -.4 0 -1.8 1.5 -2.7-.3 -1 1.5 0 1.2 -1.4 .2 -1.2 1 -1.8-.6 -1 .7 0 1.1 -.8 1 -1.5-1.3 -1.5 2 -.6-.8 -.2-2.5 -.7-.3 -.9-2 -.7-.2 -2.1 1.3 -1-.8 .6-2.2 -2.3-.5 -.8 1.3 -.8 0 -1.3-1.2 -.9 .4 -2 .1 -.4 .7 -1.6 .7 -.8 0 -.7 .3 -.2 .9 -1.3 .8 -1.5-.4 -.5 .9 -2-.7 -.2-1.2 -.9-.5 -1.6 .6 -1-.4 -.9 0 -2.3-2.8 .3-.6 -2.1-2.1 -1.5-1.2zM324 66.5l-.4-.9 .5 .1 -.2 .5zM322.1 58.1l0 .1 0-.1zM290.5 74.8l.7 .1 0 .7 -.8 1.5 -1.8-1.3zM288.2 68.2l-1.1-.8 -1.8 .6 -.5 2 -2.2-1.1 -.8-1.1 .8-1.5 -2.3-1.4 .3-1 .5-.2 .2-.5 .2 .2 1.4 .2 .4-.2 2.9 1 .6-2.1 1.7 .6 .3 2 .6 .4 1.8-.2 .2-2 .4-.6 1.7 .8 -.2 1.7 .4 .6 -.6 1.9 .2 .4 -.1 1.6 -.7 .4 -1.7-1 -1.7 1 -.8-.7zM297.2 61l.5-.5 .5 .9zM279.2 65.8l.4-.2 0 0 -.3 .7zM278.8 48.9l-.9-.5 .1-1.9 -.8-.5 0-1.7 1.2-.7 1.3 1.2 2.1-.7 -.2 2 -1.3 .9 .9 1.5 -.1 .8 -1.6 .9 -.3-.1zM271.8 63.4l0 0 -.1 0zM271.6 50l.1 .1 0 .1zM267.3 49.8l0 0 0 0zM267.9 50.3l.1 0 -.1 .1zM287.9 52.5l-.1-1 1.4-1.4 0-1.8 .5-.4 .3-2.1 1.8 0 .6 1.5 1.6 1 -1.2 1.4 .1 2.4 -.9 2 -1 .4 -1.7-1.6 -.6 0zM283.2 50.9l.9-.6 .9 .4 .1 2.1 1.5 .4 -.8 2.2 -1.4-1.2 -2.1 .6 -.5-.2 -.1-1.8 1.2-.9zM286 61.4l0 0 0 0zM295.3 52.3l-.1-.1 0 0zM307.6 65.3l.5 .1 0 .1zM298.3 73.1l0-.1 0 .1zM300.1 41.9l1.3-.5 .5 .2 -1.2 .5 -.3 .7zM302.8 41.8l0 0 .1 .1zM304.2 45.3l.3 .1 -.2 .1zM305.5 55.2l-1.3 1.2 -1.4-.7 -.3-1.4 -1.1-.3 -.5-1.8 2.3-.3 .7 1.5zM314.2 52.2l-.1 .1 0-.1zM357.9 76.6l-.6-.5 -1.8 .4 -1.1-.4 -.5 .2 -.3-.6 .5 .2 .4-.1 .9-1.6 -.9-2.1 -.5-.1 -1.2 1.4 .6 2.2 -1.6-.1 -.9-1.5 .3-.7 -.2-.4 -2-1 .2-1.3 -1.2-1.6 .1-.8 2.1-2.3 -2.3-1.2 .1-.4 2.5-1.1 -1.9-1.9 -.2-2.3 1.5-.3 .8 .7 2-.3 .3 1.3 .7 .9 1.6-.3 1.2 .7 .3 1.3 1.1 2 1.6 .4 .3 .4 1.9 .4 .3 .6 1.3 .9 -.4 .9 1.1 2.2 -.1 1.1 1.5 .9 .8 1.4 -2.8 1.3 -.1 2 -1.6 .9 -.6-.1 -1.2 .6 -1.7-.9zM358.8 41.3l.1-.4 .4 .1 .1 .2zM329.4 66.9l.3 1.2 -.3 1 -1.6-.3 -.5-1.5zM340.9 55.1l.1 .1 -.2-.2zM346.7 74.7l-.1 .4 -.2-.5zM371.4 72l-.2 .3 -.1-.2zM367.4 65.6l.5 0 1.2 .8 0 .4 -1.8 1.3 -.9-.5zM373.3 60l-.5-1.1 1 .4 .8-.2 -1 .4 -.4 1.1zM383.7 54.5l-.6 .7 -.2-.3zM370.4 61.5l-1.1 .1 -.4-.6 -.1-1.3 1.2-1 .5 0zM371.9 57.7l.2 .6 -.3-.2zM363 37.7l-.1 .5 -.3-.7zM365.6 47.4l.2 .4 .4 .2 -.9-.1zM365.8 56.6l-1.2 1.1 -1.7-.7 1.5-2.3 1 .5zM368 90l0 0 0 .1zM366.5 74.3l0 0 0 0zM361.7 87.6l-1.2-1.4 0-.7 1.6-1 .9 2.1 0 .3zM383 89.6l.1-.1 -.1 .3zM379.2 69.7l.4 2.2 -1 .6 -1-.4 -.3-1.3 -1.3-.6 -1.4 .6 -1.6-2.3 1-.7 .2-1.8 1.5-.7 1.4 .5 .7-.3 .4 .2 1 1.5 1.5 .6 .5-.1 -.6 .9zM384.6 63.1l0 0 0 0zM378 86l-.1 .7 -.4 .2 .4-1zM372.9 68.6l-.1 .1 -.1-.2zM373.6 80.6l-.1-.1 0 0zM374.5 76.1l.1-.3 .2 .4zM377.8 91.5l.6 .1 0 .1zM385.6 59.4l.8-.3 -.8 .4zM384.8 82.7l.1 .2 -.3 .6 -.4-.7zM395.2 81.9l-.1 .1 .1-.3zM395.7 82.5l0 0 0 0zM387.4 70.1l-.1-.2 .1 .2zM384.7 92.1l1.6-.4 .5 .2 1.4-.6 .8-1.6 .5-.2 .9 .9 .5 1.2 .9 1.1 -.7 2 0 .7 .3 .4 -.5 1.7 -.7 .3 -2.3-2.4 -.9 .4 -1.3-.3 .1-.8zM261.9 84.3l-1.3 .9 -.8-.4 -4.4 1 -.5 .9 .1 .5 -1.2 1.8 .3 .6 -1.7 1.7 2 1.4 .8 .9 -1.3 2.2 .2 1.6 .2 .3 1.5 .4 -.3 2.4 .8 .2 .4 1.9 1.2 .6 -.2 .9 1.2 1.9 -1.5 1.5 -.3 1 .2 .3 1.6 .9 .7 2.1 -.7 1.5 .4 .8 3-.6 -.3 2.5 .8 .7 .2 .7 .7 .2 .7 1.7 1 .3 .5 2.4 .9 .8 -.4 .2 -.8 1.5 .5 1.2 1.3 .8 .9-.2 1.4 1.3 -1.2 1.8 1.2 1.5 -.5 1.7 1.6 .8 1.1-.3 1.1 .4 .2 .5 -1.6 2.2 1.2 .7 .3 1.8 2.4 0 .9 .7 1.5-.2 .9 .4 -.8 2.6 .3 .8 .7 .7 -.4 1.6 .2 1 1.9 1.2 -.1 .3 1.1 2.3 .7 .3 0 1.7 -.6 .7 .1 1 1.3 1.2 .3 1.4 2.1 .4 .4 .9 -.5 1.9 1.3 1.1 .2 .5 2.6 .6 0 1.4 1.3 1.6 2 0 .1 .5 .9 1 -.6 2.3 .3 .6 3.1 1.3 .3 .5 .6 .4 2-.6 1.5 1.2 .6-.2 1.3 .5 1.8-.6 .9 .5 .5-.3 2.6 .4 1.9-.3 .9-.9 1.6 .8 .3 1.8 1 .5 1.2-.7 0-2 1.5-.3 -.4-1.6 -.9-.8 .3-.9 -1.6-1.5 .6-1.3 .1-1.6 1.8-.2 1.2 1.3 1.3 .7 .3-.2 1-2 .3-.1 2.1 1.6 1 .4 -.7 1.2 .1 .6 -1 1.3 -.3 1.2 -.9 .6 -.2 1.3 .2 .4 1.8 1.2 1.5-1.4 1.6 0 1.8-2.1 1.1 .1 1.1-.5 .1-2 .8-.8 .3-1.1 1.3-.4 .5-1 2.7 .3 .3-.4 -.7-2.4 2.2-.8 .2-1.2 1.3-.4 1.1 .1 .7-.4 .1-1.5 2.4-.7 0-.9 .6-1.7 -.5-1.2 1.5-1.1 .1-1.2 1.7-1.2 .7-2.8 2.1-.1 .2 2.2 1.5 .8 1.4-1.2 1.8 .9 .1 1.9 2.6 .5 .4 .3 1 1.7 1.7-.5 .6 .3 1.6-1.2 -.9-1.9 .4-.4 .1-1.8 1-.7 0-1.4 -1.6-1.4 1.3-1.2 .2-1 -1.3-1 -.2-1.4 -1.4-.3 -.6 .1 -1.3-1.4 0-.3 1.7-1.1 -.8-2.1 -2.1 .2 1.1-2.4 -1.7-.5 .3-1.5 -1.1-1 -2.1-.3 -1.2 1.6 -.5 .1 -.2-.4 -1.3-1 -1-1.3 -.1-1.7 -1.8-.4 -.2-1.4 -.3-.4 -2.2-.1 -.4-.7 .2-1.2 -1.4-1.5 .2-1 -2.4-.6 .4-1.3 -1.9-.9 -1.1 .8 -.8-2 -.9-.5 -.2-1.4 -.6-.4 -.3-2.4 -1.1-.4 -1-1.4 -1.7 .3 -1.6-.9 -.8 .4 -.9-.1 -1.4-1.9 -.7-.5 -1.1 .7 -1.9-.3 -2.2 .3 -.5 .5 -2.1-2 -1.5-1.1 -1.3 0 -.7-.5 -.3 .2 -1.4 2.3 -2.3-2 -.2-1.8 -2.4 0 -.6 .4 -.2 .5 .2 .6 -.3-.2 -.7 .7 -1-.2 -2.3 1.1 -1.4 1.4 .4 1.2 -1.7 .9 .6 1.8 -.9 1 .9 1.8 -1.1 1.5 -.5 .1 -.4 1.6 -1.2 1 .3 1.3 -1.3 1.2 .2 1.2 -.3 1.4 -1.2 .3 -.8 .9 -.1 1 .3 .9 2.1 2.1 -.3 1.9 -.2 .2 -1.6-.6 -1.1 1.1 -1.1-.4 .5-2.2 .8-.3 .8-1.6 -.3-.8 -2.2-.1 -.8-1.1 -.8-.2 -.6-2 -.6-.3 -.5-2 -1.2 .1 -1.8-1.2 -.1-.3 -3.6-2.1 -1.6 1.2 .1 1.6 -.8 .9 -.1 1 -2.1 1 -.3-.2 .7-3.9 1.5-.7 -.2-1.1 1.6-1 -1.1-2.2 -.7 .2 .4-1 -1.2-1.7 1.4-2.2 -.6-1 0-1.8 .6-.7 .1-1.8 .4-.3 2.5-.2 .4-2 -1-.6 -.6-2 1.7 .3 .7-2.3 -2.1 0 -1.3-3.4 1.2-.5 -.2-2.2 -.8-.3 -.8 .4 -.7 1.8 -1.6-.9 -1.1 1.3 -1.7-1.4 -1.4 2.2 .4 .9 .3 .1 -.3 .1 -.6-.2 .3-.6 -.2-.4 -1.5-1.4 -.1-.6 -2-1.3 -2-.6 -1.8-.2 -1.4-1.9 .4-1 -1.2-1.3 -1.5 .6zM314.5 139.5l-1.6-.7 -1.3 .6 -1.9-2.8 .8-1.8 -.1-.3 -2.7-1 .1-.7 1.8-.5 .6 .6 1.7-.9 .5 .4 1.6-.5 1.2 2.2 .2 1 1.2 1.2 1.5 .7 -.5 2.3 -1.9-.6 -1.1 .4zM316.1 128.3l-1.5-.9 -.2-1.1 -1.6-1.4 -.2-.7 1.2-1.1 1.5 .9 2-1.2 .9 1.1 1-.1 1.1 .4 -.9 3.5 -1.2 .5 -.9-.3zM321.8 115.1l.1-.1 .2-.3 .1 .6zM284.3 149.5l.2-.6 1.6-1.1 .7 .3 .9 2.3 -3.1-.5zM290.8 130.3l0-.4 .2 .5 1 .4zM270.1 108.9l-.3-.3 .4-.2 .6 .3zM274 106l1.7-1.5 1.4 .7 -.3 1.9 -1.4 0 -.7 1.2 -.3 .2 -1.3-.6 .2-.9zM259.1 91.9l1.5-.5 .9 .3 .3 1.4 -1.3 .8 -1.1-.5zM268.3 95l-.2-.2 .3-.1zM261.7 101.5l.1 .5 .6 .4 -.9-.4zM265.5 99.9l.9 1.7 -.9 1.6 -1.9-.9zM265.3 113.1l.2 .1 -.3 .2zM277.5 93.7l0 .4 -.5-.2zM282.4 128.2l-.5-.1 .2-.5 -.3-.8zM285.3 125.9l-2.1-.6 1.2-1.4 1.1 0zM286.5 122.1l.4 .2 -.2 .3zM282.8 134.7l0 0 0-.1zM300.5 159.7l-.2-.5 .3-.4zM304.4 147.8l-2 .4 -.2-2.1 .6-.9 -1.5-1.6 1.7-1.5 .3 .1 1.5-.9 .8 .2 1.3-.7 .8 .9 -.2 1.2 1.9 1.2 1.3-.3 .2 .3 -.5 2.9 -2.4-1.3 -.8 .2 -.1 1.8 -.5 1zM304.1 123.3l-1.1-2.5 -1.4 .5 -1.2-.4 -.5-1.2 1.3-.6 1.8 1.3 .8-.4 .3-.8 .1 .4 .9 .5 .6 1.2 -1.3 2zM305.7 107.8l-.2-.1 .3-.1zM300.3 128.4l-1.4-.7 0-1.3 2.2-.3 .7 1zM297.2 152.4l-.4 .8 -.2-.6 -.7-.3 .8 .2 1.3-.7 .1 .2zM297.2 135.7l.4 1.1 -.2 .3 -2.4 .2 -.2-.3 -.1-1.3zM294.7 141l.8 .3 .1 .2 -.8-.3 -.5 .1 .3-.6zM292.9 148l.8 .3 1.2 1.8 -2.3 .5 -.2 .4 -1.2 .7 -.6 .1 -.3-2.1 2.2 .4zM292.9 142.1l.2-.1 -.1 .4zM294.1 163l.1 0 -.3 .1zM304.2 117.9l0 .3 -.2-.4zM300.6 138l1.3-1.4 .9 .6 .7 1.7 -1.3 1.2 -1.9-1.2zM310.5 158.8l-.1 0 .1 0zM311.4 157.7l.1 .1 -.2 .1zM311.5 114.6l-.9 .3 -.1 .3 -1.2-1 .3-.1 .7-1.6 2.5 .3 1 .6 -.2 1.8zM319.6 109l0 0 0 0zM343 142.6l-.7-1.6 .2-1.6 1.7-.6 2.3 1.5 -.6 1 .2 2 .8 .4 -.2 .5 -.2-.4 -.7-.4 -1.3 .2zM340.3 134.4l.7-1 1.3-.2 .2 1.5 -.9 .4zM331.5 148.6l0-.5 .4-.3zM332.9 146.9l.2 .1 -.6 .3zM333 141.8l0 0 0 0zM330.4 134.9l-1.3 .4 -.4-.6 .1-1.5 -1.9-1.2 -.1-.8 -1.9-.4 1.3-2.3 1 .6 0 1.8 2.4 .3 1-1.3 1.1 .4 .6 1.8 -.4 .6 .6 1.8 -.9 .6zM332.1 122.7l0-.3 .1-.1zM330.9 115.4l-.2-.2 .6-.2 -.1 .3zM324 161.4l0 0 0 0zM324 161.2l0 0 0 0zM323.5 160.8l-.1-.1 0-.1zM321.5 153.9l.1 .1 -.1 .1zM321.6 123.8l.2-.5 .2 .6zM320.6 133.3l.2 1.3 -.8 .7 -1.6-.9 -.2-1.2 1.8-.4zM316.7 143.5l.2 .2 -.3 .5 -.1-.4zM317.4 160.6l-.1 0 .1 0zM318.1 160.1l.2-.2 -.3 .4zM328.3 146.3l1.1-.1 1.4 1.6 -2.1 .8 -3-1.6 0-1.1 1-1 .3 0zM326 127l-.8-1.5 .3-.6 1.1-.2 1.1 .5 .3 .6zM330.8 154.9l-.2-.3 .4-.1zM334.6 126.4l.3-.4 .3 .1zM342.1 123.4l.5 2.1 -1.5 .3 -.6-1.5 1.2-1.1zM340.3 130l.6 .4 -.9 .4zM337.4 136.2l-1.8 1.4 -1-.6 .2-1.8 -.2-.4 .7 .3 1.4-.1zM353.6 70.2l1.4-.7 .3-2 -.6-.4 -2.1 .3 -.1 1.5z"/>
<path fill="#66c2a5" d="M321.6 72l-.6 .9 -2 1.2 -.3 .4 .3-.7 -.9-1.7 -2.2-.1 -.4 .4 -1.5-.5 -2-.3 -.5 .3 -.4 1.2 -1.4 1 .8 2.6 1.3-.8 1.8 1 1.3-.3 .3-.3 -.3 .8 1.4 1.8 -.4 1.2 2.4 1 .1 1.5 2.4-.2 .4 .5 1.5-.1 .8-2.1 .6-.4 1.2 2.5 1.1 .3 .5 1.7 -1.2 1.3 0 .6 -1 1 0 1.5 -1.2 1.1 0 1 -.4 1.7 -1.7 .2 -.5 .9 -2 .2 -.3 1.5 .8 .7 -.7 1.9 -1.9-.7 -.3 .2 -.4 1.2 .5 1.1 -.1 1.5 -1.4 .6 .1 1.8 .7 .6 1.3 0 1.4 1 1.3-1.3 1.3 1.1 .2 1.7 2.2-.3 2 .4 1-.8 2 2.5 .6 0 1-.4 .2-.3 .2 .4 1.4 .8 1.6-.3 .9 1.4 1.1 .4 .2 2.3 .7 .4 .2 1.4 .9 .6 .8 2.1 1.3-.9 1.7 .9 -.5 1.3 2.6 .6 2.5-.1 .4-1 1.7-.8 .1-2.1 -1.3-.7 -.1-1.2 1.6-1.5 0-1.1 .7-.7 1.5 .4 .6-.2 .6-2.2 .8-.4 0-1.3 2.1-.7 0-1 -1.9-1.4 .3-1.1 1-.5 1.2 .3 1.2-.8 0-1.5 -.8-1.3 1.5-.8 0-1.7 1.3-.7 0-.6 -1.9-1.9 .2-1.4 -1-.7 -.6-1.5 -.6-.3 .4-.1 0-2.4 -1.9-.4 .4-1.7 -2.2-.5 0-.3 -1.4-1.3 -1.3-.2 -.6-2.2 -1.3 0 -1.4 .9 -1.3-2.5 -.7-.4 -1.1 .5 -1.3-.4 -1.7 .5 -1-.3 -.3-1.1 -2.2-1.3 -.5 .1 -1.7-.6 -1.1 .3 -.8-.3 .8-2.7 -.5-.6 -1.1 .3 -2.1-.6 -1.1-.1 -.9-1.6 -1.6-.5 -1.1 .7 -.4 1.3zM334.8 104.7l.7-.8 1.3 .5 -.1 2.3 -.5 .4 -1.5-.6zM341.3 93.3l.2 .2 -.5 .2 -.2 .5 -.3-.6zM339.1 88.4l-1.6 1.7 -1.2-1.9 .3-1.2 -.9-.9 -.2-.6 1.8-1.6 1.4 .8 .5-.2 1.3 .9 -.3 .9 1.4 1.6 -1.2 1.1zM324.4 79.7l-.1 0 -.1-.4zM327.8 78l0 0 0 0zM328.1 77.8l.1-.6 .1 0zM323.9 78.2l.3 .1 -.1 .4zM323 76.9l.4 1.1 -.5-.2 -1.4 .3 -1.2-.7 -.1-1.5 1.9-.2zM329.3 100.5l2.4 .3 0 1.5 -1 .8 .1 1.1 .7 .9 -.1 1.1 -.8 .9 -1-.8 -1.1-1.7 -.6-.2 -.2-1.3 1.7-1.4 0-.6 -.3-.9zM340.7 107.6l0 0 0-.1zM352.3 97.4l.7 .7 .6 .3 .6-.2 -2.9 1.6 -.7-.1 -.8-2.1zM349.4 91.3l0 0 0 0zM340.6 101.7l-.5-.4 -.3-.7 .6-1.2 -.1-1.5 -.6-.3 -.2-.7 1.2-2 1.4 1.6 -1.1 1.4 1.8 1.4 .5-.1 1.2 .8 -.7 2.3 -.3 .2 -.6 1.3 -.5 .5 -2.1-.3zM345.7 86.5l-.4-.5 1.3-2.3 1.7 2zM352 95.2l-2 1 0-1.6 1.8-.3zM351 90.8l-.4 0 -.5 .2 .3-.7 .3-.1zM298.6 98.8l-.4 .1 -1.6 1.5 -1.5-.4 -.8 .3 -.1-.4 -1.7-.4 -1.6 2.5 1.8 .8 .3 1.5 1.1 .4 1.1-.6 2 .5 .3-.1 2.2 1 1-2.1 -.4-.7 2-2.4 -.8-.4 -2.1-.1zM378.3 114.8l.8-.7 -.1-.6 -1.6-1.2 -.1-1.3 -.5-.2 -2 .2 -.6-.2 -.8 .5 -.4 1.1 .9 2.5 1.3 .4 1.3-.6zM349.8 123.6l-2.5 .8 .2 1.6 1.8 .4 .1 1.6 1 1.4 .4 0 .9 1 .8 .3 1.4-1.5 2 .1 .6-1.3 -.3-1 1.6-1.3 0-.7 -.9-1.2 -1.5 .7 -1.6-.5 -.5 .3 -1.7-.7 -1.1 .5zM365.1 136.3l-1.2-1.5 -1.2 .1 -.9 1.5 -1.8 0 -1.7 1 0 .6 1.4 1.6 .6-.1 1.4 .2 1.3-1.3 2-1.4z"/>
<path fill="#869bcf" d="M266.9 65.8l-.5 1 1.5 2.4 1.7 .8 1.1-.9 -.1-1.8 -.9-.7 -.4-1 -.5-.2zM282.3 86.4l-1.3 1.5 .5 1.6 .7 .2 .2 2 -1.2 .6 1.3 3.6 2-.1 -.6 2 -1.8-.2 .7 2.2 1 .6 -.3 1.3 .2 .5 -2.6 .1 -.5 .2 -.2 2.1 2 1.1 .2 .3 2 0 .4-1 1.1-.5 .9-.1 .4-1.2 2.3-.6 .3-.8 -.2-.7 -.4-.8 -.8-.3 .8 .2 1.1-.8 .5-2 1.2 0 .5-.4 .1-.2 -.5-1.9 .4-.7 -1.3-1.8 -1.1-2.8 -.9-.6 -2.1 .6 -.7-.4 -.8-2 -.5-.2 -1.3 .5zM300 102.6l.5 .9 1.9 .8 .4 0 1 1.4 2.4-1.1 1 .2 .8-.9 .1-.7 -.4-.7 -.1-1.7 -2.4-1 -.7 .6 -2-.2 -.5 .2zM281.4 117.5l-1.1-.6 -1.6 .7 -.7 4.3 .5 .2 2.4-1 0-1.1 .7-.8zM303.3 51.7l-2.7 .4 .6 2.1 1.1 .3 .3 1.4 1.7 .8 1.5-1.5 -1.7-2zM317.1 67l-2.8 0 -3.3 .9 0 .9 .9 1.2 0 1.8 3.6 .8 .5-.3 1.9 .1 1.2 1.9 2-1.2 .6-1 -.2-.4 -2.8-.5 0-1.6 -.8-.6 .1-.4 -.5-1.3zM317.3 122.5l-2 1.2 -1.5-.8 -1.1 1 -.3 .5 .1 .6 1.7 1.5 .2 1 1.8 1 1-.4 1.1 .4 1.3-.7 .3-1.6 -2.3-.7 .8-1.7zM314.1 131.7l-1.6 .5 -.6-.4 -1.7 .9 -.5-.7 -2.1 .6 -.1 1.1 2.8 1 -.8 2 1.9 2.8 1.6-.7 .4-.8 0-.8 2.8-.3 -.6 1.9 2.2 .7 .6-2.6 -1.7-.8 -1.1-1.1 -.2-1zM308 141.6l-1.1-1 -1.3 .7 -.9-.2 -1.5 .9 .8 1.8 0 .9 -1.4 .4 -.6 .9 .2 2.3 .4 .1 1.7-.3 2.4 .9 .6-1.2 .1-1.7 .6-.1 2.6 1.3 .5-3.3 -.4-.4 -1.3 .3 -1.6-1.2zM334.8 52.9l-3.6-2.8 -.9 .1 .2 2.3 -1 .7 .2 1.4 -.2 .4 .6 1.2 1.1 .2 1.3-.5 .6-.8 1.1-.2zM333.5 60.9l.6 2 .8 .3 1.7-.4 .7 .9 .6 1.5 1.3 .5 1.1-.5 .3 .1 -1.4 .6 -.8 3.4 .8 2.2 1.2 .6 -.1 1.3 1.2 1.7 .7 .1 1.3-1.6 .3-1.4 -.3-.5 .1-.4 1.6-1.5 -.7-1.6 .4-.9 2.2-.2 .3-1.8 -1.8-.5 .1-1.2 1.3-1 -.2-.7 -1.1-.9 -.3-1.2 -1.6-.9 -1.2 .6 -.9 1.6 -.9-.5 -.5-1.1 -.7-.4 -1.6 .6 -.9-1.6 -1.3 1.1 -1.7-1.3 -.4 .1 -1.2 1.2 .3 1.2zM341.1 97.7l-1 .2 .1 1.5 -.7 1.1 .4 1 .5 .3 -.4 2.3 2.4 .5 .7-.6 .3-1.2 .5-.3 .9-2.5 -1.4-1 -.5 .1zM332.6 132.1l-.7-2 -1.3-.5 -1 1.4 -2.3-.4 -.7 .7 .1 .8 1.9 1.2 -.2 1.4 .7 .8 1.3-.3 1.2 .2 1.2-.8 -.6-1.9zM353.7 61.2l-.5 1.8 .3 .6 .1 .7 .8 1.2 .2 1.8 .5 .2 -.4 1.8 -1.2 .7 -.2 1.2 .7 1 .3 .1 .8 1.9 -.8 1.4 .3 .8 .8 .3 1.9-.3 .4 .3 .3 1.5 1.9 .9 1-.6 .9 .2 1.7-1.1 .1-1.9 2.8-1.3 .1-.3 -.9-1.4 -1.7-1.1 .3-.7 -1.2-2.5 .1-.3 -.3-.8 -.9-1.3 -2-.4 -.3-.4 -1.6-.4 -.6-1.4 -.9-.3 .4-.8 -.3-.8 -1.2-.7zM356.4 93.2l1.9 1.9 0 .5 1.4 .8 1.3-.7 -.6-2.5 -1.1-1.3 -1.1-.4 -1.6 .4z"/>
<path fill="#440154" d="M252.2 217.9l.3 2.6 -1.3-.1 -1.2-.7 -1.5 1.3 1.1 2.7 1.1 .1 -.5 .2 1.1 2.5 .3 .1 1.2 2.5 .8 .1 .8-.8 1.3 .3 .4 1.2 -.9 1.9 1.6 .9 .3 .8 1.3 .3 1.6-.4 .4 2.3 1.4 .1 .2 .9 1.1 .8 -.8 2.2 -.2 1.5 1.4 1 2.2 .3 .4-.6 -.1 .6 -.5 .2 -.9 1.7 1.1 1.4 .5 1.4 -1.1 1.1 .4 1.9 -1.8 .4 -.5 .9 1.4 2.4 1.8 .7 1-.8 2.2 .8 .8-1.8 1.2-.7 1 .7 .1 2.1 -2.8 .1 .4 1.4 2.4 .6 .6-.3 1.8 .6 -.2 .5 0 1 .9 .9 2.1-1.3 1.2 1.1 .7-.3 1.7 1.1 2.8 .3 -.1 1.9 2.8 .4 .2 .3 1.8 .5 .7-.3 .7 .3 1.7-1.1 -.1-1.6 .8-.3 1.4 .5 1.5-1.4 .7 .2 1.8-1.5 .1-.3 -.6-1.1 -1.2-.1 -.1-2.5 1.5-.2 .2-1.7 .7-1 1 .4 .5 .8 -.9 1.6 -.7 .6 .1 .8 2.1 1 1.1 .1 1.1-1 0-1.7 1.8-.7 1.1 1.6 1.8-1.5 .9 1.1 0 1.7 -.4 .3 -.4 1.2 -1.4 .9 .6 2.5 1.4-.7 1.9 1 1.3-.3 .3-.4 -.3 1 1.5 1.8 -.5 1.1 2.4 1 .1 1.5 2.3-.2 .5 .5 1.4-.1 .8-2.1 .7-.4 1.2 2.5 1.1 .3 .6 1.8 -1.3 1.3 0 .6 -1 .9 0 1.6 -1.2 1 0 1.1 -.4 1.8 -1.7 .1 -.5 .9 -2.1 .2 -.2 1.5 .8 .6 -.7 2 -.3 .1 -1.6-.8 -.3 .2 -.4 1.2 .5 1.1 -.1 1.4 -1.4 .7 .1 1.6 -1.6 2.5 -2.4-2 -.1-1.8 -2.4 0 -.7 .7 -.4-.8 -.1-1.7 -2.4-1 -.6 .6 -2-.2 -.4 .1 -.7-.4 -2.1 0 -.7-1.1 -.4 0 -1.6 1.7 -1.6-.5 -.7 .3 -.2-.4 -1.4-.5 -.3 .1 -1.5 2.4 1.8 .8 .3 1.5 1.1 .4 1.1-.6 2 .5 .2-.2 2.2 1.1 1-2 1.8 .8 .4 0 .9 1.3 -1.3 1.4 .4 1.2 -1.7 .9 .6 1.7 -.9 1 .9 1.9 -1.1 1.5 -.5 .1 -.4 1.6 -1.2 1 .3 1.3 -1.3 1.1 .2 1.2 -.3 1.5 -1.3 .3 -.7 .9 -.1 1 .3 .8 2.1 2.1 -.3 2 -.3 .2 -1.6-.6 -1.1 1.2 -1.1-.5 .5-2.3 .8-.3 .8-1.5 -.3-.8 -2.2-.1 -.7-1.1 -.9-.2 -.6-2 -.6-.3 -.5-2 -1.2 .1 -1.8-1.3 0-.2 -3.6-2.1 -1.7 1.3 -1-.6 -.3-1 1.7-1 -1.1-2.1 -1.2 .5 -.1-.2 .6-.2 .4-.9 -1.3-1.8 1.5-2.1 -.6-1 0-1.9 .6-.6 1.9 1 .2 .3 2 0 .3-1 1.1-.5 1-.1 .3-1.2 2.3-.6 .3-.8 -.6-1.4 -.9-.4 .2-.2 .8 .3 1-.7 .5-2 1.3 0 .5-.5 -.5-1.9 .4-.7 -1.3-1.8 -1.1-2.8 -.9-.6 -2.1 .6 -.7-.4 -.8-2 -.5-.2 -1.2 .5 -1.8-1.1 -1.2 1.4 .5 1.5 -.7 .4 -.8 1.8 -1.6-.9 -1 1.3 -1.7-1.4 -1.4 2.1 .4 .9 .4 .2 -.4 .2 -.7-.2 .2-.7 -.1-.4 -1.5-1.4 -.1-.6 -2-1.3 -1.9-.6 -1.9-.2 -1.4-2 .4-.9 -1.1-1.3 -1.5 .6 -1.2-.6 -1.4 .9 -.8-.4 -4.3 1 -.5 .9 .1 .5 -1.2 1.8 .3 .6 -1.7 1.7 2 1.3 .8 .9 -1.3 2.3 .2 1.5 .1 .3 1.6 .4 -.3 2.4 .8 .2 .4 1.9 1.3 .6 -.2 .9 1.1 1.9 -1.5 1.5 -.3 1.1 1.2 .9 .6 .2 .7 2.2 -.7 1.4 .4 .7 3-.5 -.3 2.5 .8 .7 .2 .7 .7 .3 -.1 .1 .8 1.5 1 .3 .5 2.5 .7 .7 .4 .1 -.6 .2 -.8 1.5 .5 1.1 1.3 .8 .9-.2 1.4 1.3 -1.2 1.8 1.2 1.6 -.5 1.6 1.6 .8 1.1-.3 1.1 .4 .3 .6 -1.7 2.1 1.2 .7 .3 1.8 2 .1 .3-.3 .1 .4 .8 .5 1.5-.2 1 .5 -.8 2.6 .3 .7 .7 .8 -.4 1.5 .2 1 1.3 .9 .7 .2 -.2 .5 1.1 2.2 .7 .3 0 1.8 -.6 .7 .1 .9 1.3 1.2 .3 1.4 2.1 .4 .4 .9 -.5 1.9 1.3 1.2 .2 .4 2.6 .6 0 1.4 1.3 1.6 2 0 .1 .5 .9 1.1 -.6 2.2 .2 .6 3.2 1.3 .3 .5 .5 .4 2.1-.6 1.5 1.2 .5-.2 1.4 .5 1.7-.6 .9 .5 .5-.3 2.7 .3 1.9-.2 .9-.9 1.6 .8 .3 1.9 .9 .4 1.2-.6 0-2.1 1.5-.3 -.4-1.5 -1-.9 .4-.9 -1.6-1.5 .6-1.3 .1-1.6 1.9-.2 1.2 1.3 1.3 .7 1.2-2.2 .4-.1 2.1 1.6 1.1 .5 -.4 .1 -.4 1 .1 .7 -1 1.3 -.3 1.2 -.9 .5 -.1 1.4 .1 .3 1.7 1.1 1.6-1.4 1.5 .1 .5-.3 1.2-1.9 1.2 .2 1.1-.5 .1-2 .8-.7 .3-1.2 1.3-.4 .5-1 2.7 .2 .3-.3 -.7-2.4 2.2-.8 .2-1.2 1.3-.5 1.1 .2 .7-.4 .1-1.5 2.4-.7 -.1-.8 .7-1.7 -.5-1.3 1.5-1.1 .1-1.2 1.7-1.2 .2-.9 -.2-.2 .7-1.7 2.2-.1 .2 2.3 1.5 .7 1.4-1.2 1.8 .9 .1 1.9 2.6 .5 .4 .3 .9 1.7 1.7-.5 .6 .3 1.5-1.2 -.6-1.8 -.5 0 .7-.5 .1-1.8 1-.7 0-1.3 -1.7-1.4 1.4-1.3 .2-.9 -1.3-1 -.2-1.3 1.2-1.3 2-1.4 .1-.6 -1.2-1.5 -1.2 .1 -.9 1.6 -1 0 -.6-.1 -.7-2 -2.2 .2 -.1 .2 1.2-2.7 -1.7-.4 .3-1.5 -1-1 .5-1.3 -.3-.9 1.6-1.4 0-.6 -.9-1.2 -1.4 .7 -1.7-.5 -.5 .3 -1.7-.7 -1 .5 -.8-.5 -2.3 .7 -.3-.3 -2.2-.1 -.5-.7 .3-1.2 -1.4-1.6 .2-.8 2.5-.1 .3-1 1.7-.7 .1-2.2 -1.3-.6 -.1-1.3 1.6-1.5 0-1.1 .7-.7 1.6 .4 .5-.2 .6-2.2 .8-.4 0-1.3 2.1-.7 .1-.9 -2-1.4 .3-1.2 1-.5 1.2 .3 1.2-.8 0-1.5 -.8-1.2 1.5-.9 0-1.7 1.3-.6 1.3 .7 1.2-.7 -.6-2.4 -1.1-1.3 -1-.4 -1.5 .4 -1-.8 -.6-1.6 -.7-.3 .5-.1 0-2.4 -1.9-.5 .4-1.6 -2.2-.5 0-.3 1.4-1.2 1.4 .6 1.5-.8 .4 .2 .4 1.3 1.3 1 -.2 1.3 .6 1.1 1.1 1.3 .9 .5 0 2 2.4 .4 .5-.2 .3-.7 1.8-1.2 .4 1.9 .8 .8 1.7-.8 .7 .8 2 0 .3 1 2.7 .5 1 .4 .5 1.5 -.4 .7 -.1 .8 1.1 1.4 2 0 -.9 2.1 1.2 1.7 -.3 2.1 -.8 .6 .1 .6 -.9 2.4 .2 .2 .4 2.7 -2 .2 -.6-.2 -.7 .5 -.4 1 .9 2.5 1.3 .4 1.3-.6 1.8 .1 .7-.6 -.1-.6 1.2-1.5 1.5 1.3 1.4-.5 .2-1.5 1.1-.8 .2-1.8 .5-.2 .4-.9 0 .5 .5 .3 1.5-.1 1.4-2 -.1-.3 .7-1.6 .7-.3 .2-1.7 1.5-.9 .1-.4 1.2-1.4 0-.8 1.6-1.3 -.2-1.5 1.3-1.2 -.1-1.4 -1-1.1 0-.6 .8-1.5 -.4-.9 -.5-.4 -.5-1.8 2.2-2.4 .9 .4 1.4-.8 0-2 -.3-.5 .7-1.4 -.3-2.2 .2-.4 -.9-1.5 -.9-.3 .2-.3 -.4-.9 .2-.1 .4-2 .4-.7 -2-2.2 -.6-2.4 -1.5-.4 0-1.8 -.6-.5 -.5-1.4 -.8-.4 -.1-1.4 -.8-.6 -.4-2.3 -.4-.1 -1.8-1.9 -1.4 .3 -1.6-2.3 -1.5-.3 -.8 .6 -.1 .3 -.2-.5 1-.5 .2-1.4 -1.2-1.8 -.4-.3 -2.5 0 -.5-1.2 .5-1 -1.9-2.1 -.1-.7 -.6-.6 -2.7 1.1 -.7-.6 -.1-1.5 -1.6-.8 .3-1.9 -.8-1 0-.8 1.1-1 1.3 .6 1.7-.9 .1-.3 -1.8-1.8 0-.6 -1.1-1.4 -.2 .1 -.4-1 -1.9-.2 -1 1.6 -.8 .2 -.9-.1 -.6 .7 -1.2-.3 -1.4-2.2 -.9 .7 -.3 .1 -1.4 2.1 -1.3-1.5 -1.8 1.4 -.5-.7 -1.5-.1 -1.2 2.2 -.6 .2 0 .3 -.2-.5 -.7-.3 -.9 .4 -1.5-.1 -.8 1 -.4 .1 -.6 2.4 .4 .3 -.1 2.4 -.9 .6 .4 1.2 .9 .9 -1.6 2 -.5 2.1 -.7 .4 -1.2-.4 -1.1-2.3 -.3-.2 -1.4 .7 -1.9 .5 -1-.5 -1.5 .8 -.3 .6 -1.4 .4 -.9-.1 -.7 .2 -3.1-2.1 -1.2 .4 -.8 1.4 -.7 .1 -1.1-.2 -.3-1 -1.5-1 -1.4 .6 -1.6-.9 -.8 .2 -.8-.2 -1.2 .5 -.7-.6 -1-2.1 -3.9 1.2 -.9 1 -1.4-.2 -.6-1 -1.4-.7 -.1-1.4 -.7-.4 -2.1-.2 -.2-.4 .1-1.9 -2.7 .2 0-2.1 -.8-.7 -.9-1.8 -.3 0 -1.9 1.5 -2.6-.3 -1 1.4 0 1.3 -1.4 .2 -1.2 1 -1.8-.6 -1 .7 .1 1.1 -.9 1 -1.6-1.3 -1.4 1.8 .1 .2 -.5-.1 -.3-.7 -.2-2.5 -.7-.3 -.9-2 -.7-.2 -2 1.3 -1.1-.8 .6-2.1 -2.2-.6 -.8 1.3 -.8 0 -1.4-1.2 -.8 .4 -2.1 .1 -.3 .7 -1.6 .7 -.8 0 -.8 .3 -.1 .8 -1.3 .9 -1.5-.4 -.5 .9 -2.1-.8 -.2-1.1 -.9-.5 -1.5 .6 -1.1-.4 -.8 .1 -2.4-2.9 .3-.6 -2.1-2.1 -1.4-1.2zM321 264.5l-.5-1.5 -.8-.4 -1.4 .3 -1.3-.7 -.1-1.6 2-.3 1 1.3 .3 1.1 .9 .3 -.2 .6 .4 .9zM320.5 256.5l0 .1 -.2 0zM320.7 251.5l-.6-1 .2-.3 .7 .1 -.3 .6 .2 .5zM319.5 245.7l.1-2.1 -.3-.3 .7 .2 1.4-.2 .3-.5 -1.1-2.8 .3-.3 0-2 .8-.7 1.8 .7 0 1.8 .8 .3 2 0 .6 1.1 -.7 1.3 .5 1.7 -.6 1.9 -.7 .3 -1.9 0 -.6-.3 -1.9 .7zM297.4 232.5l0 .2 -.1-.1zM297.2 227.6l-.5-1.1 1.4-.4 .7 .3 -1.3 .5zM279.3 251.1l-2.4-1.4 .4-1.1 .5-.2 .3-.7 .2 .4 1.4 .2 .3-.2 2.9 1 .5-2.2 1.9 .7 .3 2 .6 .4 1.7-.2 .2-1.9 .4-.8 1.8 .9 -.2 1.8 .4 .5 -.6 2 .2 .3 -.1 1.7 -.7 .4 -1.7-1 -1.7 1 -.9-.7 -.1-1.1 -1-.7 -1.9 .6 -.5 2 -2.2-1.1 -.8-1.1zM278.4 239.3l0-1.7 1.2-.9 .3-1.1 1-.6 1 .4 0 2.1 1.5 .4 -.9 2.3 -1.4-1.2 -2.1 .6zM275.5 233.7l-1-.6 .2-1.9 -.8-.5 0-1.7 1.2-.7 1.3 1.1 2.2-.6 -.2 2.1 -1.3 .9 .9 1.4 -.1 .9 -1.6 .9 -.4-.1zM268.4 248.3l0-.4 .3 .3zM267.6 240.4l0 .1 0 0zM268.5 235.3l0 0 0 0zM268.2 234.6l.3 .2 0 .4zM269 228.4l-.1 .2 -.2-.1zM269 228.4l.1-.1 .3 .1zM264.2 234.7l.6 .3 -.1 .4 -.7-.8 .1-.2zM253.6 221.2l0-.3 .1 .4zM265.1 236.7l-.1-.2 0-.1 .1 .2zM275.9 250.5l.4-.2 .2-.2 -.4 1.1zM270.1 241.3l.4-.2 -.2 .2zM276.2 251.5l-.1 0 0-.2zM288.2 246l.1-.1 -.1 .2zM287.3 241.3l0-.1 0 .1zM286 237.7l-.5 0 -1.1-.4 .3-.3 -.2-.7 1.4-1.5 0-1.8 .5-.3 .3-2.2 1.9 0 .6 1.5 1.6 1 -1.2 1.5 .1 2.3 -.9 2.1 -1.1 .4zM282.7 241l-.1 0 0-.2zM282.6 246.2l.5 .2 .1 0zM287.9 259.6l.1 .8 -.8 1.6 -1.9-1.5 2-1zM291.8 237l.2-.1 .3 .3zM294.2 245.6l.4-.8 -.1 .4 .3 .7 .3 0 -.1 .3 -1.2-.4zM294.5 257.7l.7 0 -.1 .2zM310.6 251l.3 .9 -.4 .1 -2.7 .7 -.2-.3 .7-2.4 .6-.2zM314.5 253.8l.2-.4 -.5-1.2 .9 .3 -.4 1 .2 .4zM304.2 250.1l.2-.2 .5 .2 0 .3zM299.6 226.5l.3 .3 -.8-.4zM301.3 230.2l-.3 .1 -.2-.3zM302.9 250.6l.1 0 .7-.3zM311.2 237l-.3 .2 -.2-.4zM318.7 242.9l.2-.1 .1 .3zM315.7 259l-.3 .4 .2-.7zM315.4 254.5l2.3 .2 .4 1.8 -2.8-.5zM318.4 256.8l.1 0 -.1 0zM320.7 346.1l-.6-.6 .1-.3 .2 .5 .5 .2 -.2 .4zM321.4 321.7l0 .1 -.1 0zM319.7 314.7l.2-.1 -.1 .1zM322.2 309.6l1.2-.3 1.1 .6 .3 .7 -2 1.2 -.9-1.5zM287.2 345.6l0-.1 .1 .1zM286.3 337.2l.1 0 0 .1zM289.2 334.8l.4-2.3 .9 .5 1.3 1.9 -2.4 .5 -.2 .4 -1.2 .8 -.7 0 -.3-2.3zM288.8 315.6l-1.3-.5 -.2-.4 .2 0 0-.4 .3 .8 1.1 .4zM269.4 305.8l0-.1 0 .1zM276.7 283.2l.2-.2 -.1 .3zM266.8 293.9l-.2 .4 .1-.6 -.3-.3 .6-.3 .7 .4zM256.1 278.2l-.3-1.6 1.5-.5 1 .3 .4 1.5 -1.5 .8zM258.6 286.7l.6 .4 0 .1 -1.1-.4 .3-.7zM262.2 284.6l1 1.7 -.9 1.7 -2-1zM264.6 279.8l.2-.3 .4-.2 -.2 .5 -.2-.2zM255.4 287.4l0 0 0-.1zM263.4 289.6l-.8-.4 .1 0zM263.5 289.6l0 0 0 0zM262.1 297.8l.3 .2 -.7 .3 .6-1zM270.8 287l.1 0 .1 .1zM274.3 278.3l-.1 .7 -.6-.4zM270.7 290.7l1.7-1.6 1.5 .9 0 1.1 -.3 .8 -1.4 0 -.7 1.2 -.4 .3 -1.3-.7 .2-.9zM273.3 299.8l0-.1 .1 .1zM279.6 323.1l.1 .2 -.4-.1zM279.2 313.1l-.6-.2 .2-.6 -.3-.9 .2 .1zM281.8 310.8l-1.9-.7 0-.3 1.2-1.2 1.2 0 -.2 2.1zM283.3 307.8l.2-.4 -.4-.9 .2 .3 .2-.1 .3 .4 -.3 .8zM279.4 319.5l.1-.3 .2 .4zM279.6 317.8l.2-.1 -.2 .4zM280.6 320.5l0 0 0 0zM281 334.3l.2-.7 1.7-1.1 .7 .3 1 2.2 -.1 .2 -3.2-.5zM281.1 277.5l0 0 0 0zM280.5 287.1l-.2-.1 .1-.4zM286 281.2l-.1 0 0 0zM295.8 308.7l.1 0 -.1 0zM298 303.8l1.7 1.3 .8-.4 .5-1 0 .5 .9 .6 .6 1.2 -1.3 2.2 -.5 0 .1-.3 -1.1-2.3 -1.4 .5 -1.2-.4 -.6-1.3zM305 321.7l-.2 0 -.6-.3zM305.6 299l.1 .1 -.2 .1zM303.5 295.6l.1 0 -.3 .1zM303.8 289.5l0 0 0 0zM304.7 288.8l0-.5 .3 .7zM297 344.5l-.1-.6 .7-.5 -.4 .7 .2 .4zM298.7 333.2l.4-.2 -.4 .2zM295.7 324.4l.2-.1 -.1 .2zM298.5 321.7l.2-.5 .9 .8 .7 1.6 -1.4 1.3 -1.9-1.2 .3-.9zM298.6 311.8l-1.5 1.5 -1.5-.9 0-1.3 2.3-.3zM290.1 348.3l0-.1 .1 0zM290.8 347.7l.3 .1 -.8 .3zM293.9 320.4l.5 1.2 -.2 .4 -2.5 .1 -.3-.4 0-1.3zM289.7 327.4l-.1-.6 .4-.1zM291.4 325.2l.1 .6 .8 .1 .1 .4 -.9-.3 -.6 .2zM292.7 336.8l.7 .4 1.2-.5 .1-.3 .5 .5 -1.2 .3 -.4 1 -.3-.8 -.7-.3zM299.9 301.8l0 0 0 0zM301 302.7l0 .1 0 .4 -.4-.7zM302 292.5l.2-.1 .4-.1 -.1 .4zM300.7 329.5l-1.3 .4 -1.4-1.5 1.7-1.6 .3 .1 .8 1.7zM314.7 345l0-.3 .4-.1 -.1 .4 -.8 .5 -.3-.2zM313.2 328.6l.1-.4 .4-.1 -.3 1.2zM311.4 323.9l-.2 .5 -1.5-.8 -1.5 .6 1.6-.7 .3-.8 0-.8 3-.3 -.7 1.9zM312.9 313.2l0 0 0 0zM317.1 308.9l-.6 2 -2.2-.7 .7-1.6 1-.1zM306.3 298.8l.8-1.6 2.4 .2 1.1 .7 -.2 1.9 -2.1-.6 -.9 .3 -.2 .4 -1-1 -.4-.1zM309.3 309l0-.1 .1 0zM307.2 343.8l-.2-.2 .4-.2zM308.2 337.1l.2-.1 -.1 .1zM308.1 342.4l.3 .2 -.4 .2zM318.3 299.9l.3-.1 .2-.6 .2 .9zM318.1 291.8l-.7 1.4 .2-.9 -2-2 1-1.2 1.4 1.1zM318.8 285l0-.1 0-.1zM318.8 287.3l0-.1 .1 .1zM319.1 286.8l0 0 0-.1zM315 296.7l0 0 0 0zM316.3 293.6l.1 .1 0 .3zM318.8 308.7l-.5-.2 .2-.6zM317.4 318.1l.2 1.3 -.9 .7 -1.6-.9 -.2-1.3 1.9-.4zM318.8 337.6l-.4 1.2 -.9 .3 .7-.3 .4-1.3zM317.9 328.3l0-.1 0 .1zM343.6 329.2l-.4-.6 -.7-.3 -1.3 .1 -1.5-1 -.7-1.6 .2-1.7 1.8-.6 2.3 1.5 -.6 1.1 .2 2 .9 .4 -.3 .5zM340.9 310.9l0 .1 -.1-.1zM346.8 275.8l.3-.8 .4-.1 .3 .7 -.4 0 -1.2 .6 -.1-.1zM351.1 260.9l-.5 .3 -.3-.8 -1.7-.1 -1-1.6 .3-.6 -.2-.4 -2-1 .2-1.4 -1.3-1.5 .3-.6 -.2-.4 .2 .1 2-2.2 -2.3-1.2 .1-.5 2.5-1 -1.9-1.9 -.2-2.4 1.6-.3 .8 .7 1.9-.3 .4 1.3 .7 .9 -.5 1.7 .3 .6 .1 .7 .8 1.2 .2 1.7 -2 .3 -.1 1.5 .9 1.2 -.1 1.1 .7 .9 -1.2 1.3 .6 2.1 .7 .3 .2-.1 .2 .5zM353.5 247.2l.1 .5 .3 .4 -.7-.2zM327.6 339.8l-.3-.5 .6-.2zM328.2 338.9l.1-.1 .1 0zM328.4 334.3l0-.1 .1 .1zM327.9 332.8l-.3-.2 -2.2 .8 -3-1.7 0-1.1 1.1-1 .2 0 1.4 1.4 1.1-.1 1.5 1.8 .4 .1 .6-.5 -.5 1.2zM331.2 319.6l.8 .2 1.5-.1 .7 1.3 -1.8 1.4 -1.2-.6 .3-1.9zM333.6 310.9l0 0 -.1 0zM334.3 310.3l.3-.6 -.2 .6zM333.3 271.8l-.9-.9 -.2-.7 1.9-1.6 1.3 .8 .6-.3 1.3 1.1 -.3 .8 1.4 1.6 -1.2 1.2 -1.4-.6 -1.6 1.8 -1.2-2.1zM334.9 263.2l-.3-1.1 -2.2-1.3 -.4 .2 -1.7-.7 -1.1 .4 -1-.4 .9-2.7 .6 .1 1.6-.6 .8 .6 1.6-.3 .6 1.5 1 .4 .1 1.7 1.9 .1 1.1-1.3 .4 .1 1 .8 .2 .6 0 1.7 -1 .5 -1.3-.5 -1.8 .5zM336.5 250.6l-1.4-.5 -.5 .2 .2-.3 1.1 .4 1.1-.5 .5 .2zM328.8 307.2l.3-.3 -.5 .6zM328.1 299.6l-.1 .5 -.4 .3 -.2-.5zM327.2 293.2l-.8 .4 -.2 0 .8-.3 .1-.4zM325.3 289.4l-.7-.2 -.2-1.3 1.7-1.5 0-.6 -.4-.9 .4 .4 2.4 .2 0 1.6 -1 .8 .1 1.1 .8 .8 -.1 1.1 -.9 1 -1.1-.8zM327.1 276.4l0 0 .1 0zM328.5 257l-.9 .3 -2.1-.6 1.1-2.1 2.1 .3zM326.2 251.5l.3 1.3 -.3 1.1 -1.7-.3 -.5-1.7zM324.4 262.7l.3 0 -.2 .2zM324.9 262.7l-.1-.9 .4 .1zM324.5 269.7l0 0 0 0zM323 313.2l1 .6 0 1.7 -.5 .5 -1.9-.4zM322.3 322.7l-.1-.1 .2 .1zM329.3 243.9l-.2-.1 .5-.1zM332.3 265.7l.1 0 0 .1zM330.9 269.2l-.1 0 .1-.2zM329.9 275.3l0 .1 -.2 0zM333.6 289.1l-.1 2.4 -.6 .4 -1.5-.7 .1-1.8 .7-.8zM330 306.5l0 .1 -.9 .3zM331.5 301.9l0-.1 0 .1zM331.3 311.3l-.2-.4 .5-.2 .5 .2zM329.8 330.7l-.1 0 .1-.1zM329.6 326.5l.2-.1 -.1 .4zM329.7 331.5l0-.3 .2 .6 -1 .4zM339.3 295.9l0 .1 -.1 0zM342.4 271.4l-.4-.7 1.3-2.4 1.8 2.1zM343.1 259.3l.4 .2 .1 .3 -.3 .1zM343.6 246.9l.4 0 -.1 .4zM342.1 244.8l-1.5-1.1 -.3-1.3 .4-.5 -.1-2.4 2 .4 .7 2.1 .2 .1 -.1 .4 .2 .6 -.4 .2zM337.6 239.6l.1 .3 .3 .1 -.4 .2zM339.8 236.7l0 0 0-.1zM338.5 246.1l-.1-.1 0 0zM340.1 249.8l-.1 0 .1-.2zM337.3 256.9l-.2 .2 -.2-.4zM338.1 277.9l.4 .4 -.7 .2 -.3 .7 -.2-.7 -.2-.1zM337.8 282.5l-.8 .2 -.6-.4 -.2-.6 1.3-2.2 1.5 1.7zM340.1 287.5l.1-.1 -.3 .7zM337.3 292.4l.3-.2 -.2 .3zM338.4 307.8l.5 .3 .5 2.2 -1.5 .3 -.7-1.6zM339.7 301.7l.2-.1 .1 .2zM337.2 314.9l.6 .3 -1.1 .5 .4-1.1zM338.5 315.4l-.2-.1 .2 0zM338.3 320l-1.3-.8 .7-1.1 1.4-.2 .2 1.5zM340 332.8l-.1-.1 .1-.1zM339.6 331.7l.1-.2 .3 1zM339.7 331.2l0 0 .2-.1zM339.5 336.8l0 0 0 0zM350.3 283.3l-.2 .4 -2.1 .9 -.7-.1 -.8-2.2 .1-.2 2.5 0 .7 .7 .6 .2 .6-.2 0 .2zM345.3 278l-.2 .1 .2-.1zM346.7 279.3l1.9-.3 .3 1 -2.2 1zM353.2 325.9l.2-.2 .2 0zM347.4 323.6l.1-.2 .1 .3zM349.1 315.4l-.3 .1 -.1-.3zM349.4 315.3l.1 .1 -.1 0zM344.9 318.6l-.2 .3 .1-.4zM347.8 319.4l.8 .3 0 0zM349.8 330.4l-.1 .1 -.1-.2zM364.6 274.6l.3 .1 -.1 .3zM363.9 273.8l-.4-.2 .2 0zM363.1 259l.2-.1 -.1 .3zM364.6 250.3l1.3 .8 0 .5 -1.8 1.3 -1-.6 1-2zM361.1 239.4l1.1 .5 .4 1.4 -1.2 1.2 -1.9-.8zM362.4 232.6l-.4 .2 .3-.8 .3 .5 .6 .2zM361.3 228.4l0-.1 0 0zM359.9 222.4l-.2 .8 -.4-1 -.4-.2zM355.7 225.6l.4 0 .2 .4 -.7 .3 -.2-.2zM359.9 256.9l-.1 0 .1 0zM360.6 256.5l0-.1 .1 0zM360.1 252.5l-.5 .7 .2-.4 -.3-.6zM358.6 248l.1 0 .1 0zM359 248.1l.1 .2 .1 .3zM354.3 257.2l0 0 0 0zM357.6 263.2l0-.1 .1 .1zM359.8 271.7l-1.4 .7 -1.3-1.4 .1-.7 1.6-1.1 1 2.1zM365.4 232.7l-.2-.1 .1 0zM365.9 233.3l-.1-.2 .2 .1zM374 255.6l-1.3-.6 -1.4 .7 -1.5-2.4 -.2 .3 -.2-.5 .3 .1 1-.6 .2-1.9 1.5-.7 1.4 .5 .7-.3 .5 .2 1 1.5 2 .6 -.3 .1 -.3 .8 -1.4 1.1 .4 2.2 -1.1 .6 -1-.4zM382.4 244.1l.6-.3 .3 .1 -.6 .4 -.3 0zM370.4 265.4l-.2 .1 0-.5zM367.3 243.4l-.1 2.9 -1.2 .1 -.5-.7 0-1.3 1.2-1zM369 243.2l-.6-.3 .3-.6zM370.6 244l.6-.3 .3 .1 -1.1 .5 -.6 1.3 .2-.8 -.7-1.4zM368.2 256.6l-.3 .6 -.2-.4zM371.1 260.8l.2-.5 .3 .8zM371.9 261.3l-.1-.1 .1 0zM374.5 276.2l.5-.2 0 .3 .3 0 -.2 .3zM374.1 271.8l.5-1.2 .2 .1 -.2 .5 .2 .3zM375 283.1l0 .1 -.1 0zM381.6 267.2l.1 .4 -.3 .7 -.3-.2 .1-.3 -.4-.3zM392 266.7l-.2 .1 .2-.5zM392.4 267.2l.2-.1 -.2 .5zM382 257.1l0 0 0 0zM381.7 248l-.4-.2 .5 .2zM383.9 254.5l.4 .3 -.1 .2zM391.9 265.6l0-.1 .1 0zM381.3 276.7l-.4-.2 .5 .3 1.6-.4 .6 .2 1.3-.6 .8-1.6 .5-.2 1 .9 .5 1.3 .9 1 -.7 2 0 .8 .3 .3 -.5 1.8 -.8 .3 -2.2-2.4 -.9 .4 -1.4-.3 0-.8zM382.3 271.6l.1 .1 -.1 0zM380 274.1l-.2 .6 -.2-.3zM379.8 275.1l0 .1 -.1-.1zM378.6 290.8l-.3 .5 .2-.6 -.3-.9z"/>
<path fill="#fde725" d="M323.2 255.3l1.4-1.8 -.4-1.9 -2.3 .6 -1.9-1.9 -.9 1.9 -1.4 1.1 -.2 .6 .6 2.8 -.2 .4 -2.2 1.8 -.1 .4 1.2 1.7 2.2-.4 0-.2 .1 .3 .8-1 0-.2 1.9 .7 .6-1.6 -1.6-2 .2-1.1 .6 .7 1.1-.5 -.1-.5zM324.1 255.5l-1.8 2.3 1.9 3.8 1.5-2.2 -.6-3.6zM315.4 290.9l1.3-1.8 0-1.5 -1.3-1.2 -.1 .3 -2-.6 -1.4 .8 .1 2.1 .7 .7 1.4-.1zM330.5 294.2l.3 .8 -1.1 1.5 .1 2.4 1.5 .4 1.5-.7 -.2-2.4 .8-.9 .2-.9 -.6-2.4 -2.4 1.2 -.1-1.5 -2.2-1.2 -.9 1.2 -1-.8 -2.1 .5 -.7-.6 -1.3 1 -2.2-.6 -1.9 .3 -.3 .3 -.6 1.6 1.9 2 .2-.3 .5 1.8 1.7-1.2 .1-1.3 .2 .1 .5-.5 1.7 .5 -.3 1.8 .4 .4 2.4-.9 .8 1.3 1.9-.5 -.4-2.1zM328.3 255l-.6 2.2 -.8 1.8 1 1.6 1.1-2.6 2.9-1.2 .7-2.5 -3.4 .2 -.1-2.1 -2.6 .3 -.3 1.4 .3 .6zM342.9 262.9l-.8-.3 -1.7 .2 -1.9 .8 -1 2.4 1 .6 3.5-.7 .2 .3 .8-.4 .8-.6zM335.8 299.7l.1-1.4 -.7-.9 -1.9 .8 .1 1.9 1 .7zM337.8 303.6l-1 .7 -.4 2.3 1.1 .4 2.7-1.8 .2 .1 0-.3 .9-1.4 -1 0 -.2-2.4 -.6-.4 -1.3 1.2zM343.9 311.1l-.2 2.2 .2 .4 .1-.1 .3 1.4 1 .2 1-.6 .3 .6 .3 0 .2-.3 .8 .5 .8 .2 -.7 1 -.2 3 .8 .4 1.8-.9 .1-.6 -.9-2.4 1.8 .4 2.1-4.3 -.1-1.4 -.4-.3 -1.1 .3 -1.1 1.2 -1.7-.4 -.1 .1 .4-.6 -.1-.4 -1.9-.9 .2-1 -.8-.4 -1.5 .4 -.3-.2 -4 .2 -1.6 2.4 .1 .2zM349.4 315.3l.1-.2 -.1 .2zM349.2 264.9l-2.1 1.4 -1.1-2.7 -.7-.2 -.7 1 .7 3.2 1.1 .5 1.1 1.1 2.1-2 0-2.2zM374.4 296.6l-.3 .4 -1.6 3.2 2.4-.5 1.1-1.2 .2-.8zM351.9 323.1l1.4 1.1 -.2 1.9 1.1 .2 1.4-.5 0 .2 1.1 1.5 2.1-1.8 -.1-1.4 1-1.3 -.9-2.2 -1.2 .3 -.6 2.6 -.3 .1 -1-1.4 -2.1-1.6 -1.6 .7z"/>
<path fill="#c8e020" d="M320.7 254.6l-.3 1.7 .2 .6 1.6 2 .4 .1 1.8-2.1 -1-2.4 -1.7-.7zM345.1 270.1l.4 2.7 2.9-.6 .2-.5 -.9-2.2zM314.3 291.8l0 1.4 2.2 .7 .8-.6 .4-1 -2.2-2.3 -.2 .1 -1.3-.9 -1.4 .1 .1 1.5z"/>
<path fill="#90d743" d="M325.5 257.3l1.1-3 -.3-.7 -1.9-.6 -1.1 1.9 .9 2.3 1 .3zM344.9 264.3l-1.3 .1 -1.5 1.3 -.2 .6 .3 1.3 .9 1 2.3-1.3zM336.9 300.8l-1.3-1.5 -1.4 .8 1.2 2.6 1.2-.9z"/>
<path fill="#5ec962" d="M340.3 263.8l2-.9 .6-2.7 -2.9 1.1 -.4 2.2zM345.6 266.2l-2.4 1.7 0 .4 1.7 3.3 1.4-5.1zM322.7 291.8l.6 .5 3.3-1.4 -.8-2.1 -.9 0 -1.8 2zM336.4 295.4l-.9 .4 -.6 2 .9 .8 1.9 0 .1-2.5zM337.4 304l-1.9-1.2 -1.1 2 .7 1.4 .7 .2 1.6-.5z"/>
<path fill="#20a486" d="M342.9 262.7l.5 3.3 1.2-.1 .9-1.4 -.4-4zM345.1 271.2l2.6-.7 .3-1.6 0-.6 -1.4-1.9 -.6 .1zM312 291.9l1.1-1.3 0-1.5 -.8-.5 -.3 .1 -2.1 2.9zM334.1 303.1l1.2-.3 -.7-3 -1-.8 -1.9 3.2zM339.2 305l4-1 .7-1.3 -.9-1.2 -3.2 .4zM347.9 317.2l1.1-1.8 -.1-.4 1.9 4.2 1.3-2.3 -.6-.9 -2.7-1.4 -.8-1.1 -.5-.2 -2.2 1.8 .2 2.4z"/>
<path fill="#21918c" d="M317.9 290l.2 2 2.1 0 .3-.2 0-2.3 -1.2-.9zM332.7 304.9l1.7-2.6 -2.6-.6 -.3 .1 -.3 .6 .2 1.5zM348.4 311.9l1.9 .6 1.7-1 -1.9-1.9 -1.8 2z"/>
<path fill="#287c8e" d="M342.3 265.4l-3 .7 -.3 2.4 1.5 .4 1.9-2zM377.6 295.9l-1.2-1.3 -2.9 1.4 -.2 1.6 2 1 2.2-2.2zM331.8 295.4l.5 2.5 .9 .5 2.5-.4 .7-2 -3.4-1.2z"/>
<path fill="#31688e" d="M374 297.3l.3-.3 0-1.5 -.4-.2 -2.6 .6 .5 2.2zM331.3 298.3l-.3 4.1 .2 0 2.5-2.8 0-1.7 -.6-.4zM356.6 324.4l.7-.1 .2-3 -.7-.3 -1.8 1.1 0 .5z"/>
<path fill="#35b779" d="M336.7 300.7l-.3 .8 -1.6 .7 -.6 .1 -1.3 2.6 1.8 .1 .7-1.7 1.9 .9 1-.5 .9-1.3 -.3-.1 1.1-.9 -.2-.7 -1.3-1.5z"/>
<path fill="#8c9bcc" d="M487.9 36.2l-.7 .8 -.2 1.9 -.7 .6 -.6 1.2 -.4 .1 -1.3 1.6 .4 1.4 .8 .7 -.4 1.1 -1.1 .9 -1.3 0 -.4 .3 -.5 1.5 -.6 .3 -.4 1.5 -2 .7 -.7-.5 -.8 .1 -1.4-.4 -1.2 .6 -.2 1 -1.8 .7 1 2.5 1.1 0 1.1-.9 .1-.6 .4-.2 2.2-.5 .2-.4 2.9 .7 .1-.2 -.1-1.3 1.8-.5 1.1 .4 1.1-.8 -.1-1.2 .3-.8 .9-.6 1.2 1.1 1.9-1 -.2-.8 .7-1.2 -.8-1.6 2.5-1 1.1-1.2 .9 0 1.7-.8 .1-.9 -1.5-1.2 .9-2.2 -2.5 .2 -.2-.9 -1.1-.8 -2.1-1 -1 .7zM470.4 49.4l-1.6 1.1 -.4 1.8 -1.9-.4 -1.6 1.4 -1.9-.2 -1 1 -1.4-.2 -1.2 1.9 .2 1 .5 .3 1.7-.1 .2-2.6 1.8 1.9 1.1-2.8 1.4 1.2 1.4-.2 .7-2.2 1.9 1 .6-.3 .9-.8 -.4-1.8zM439.7 68.9l-2 1.3 1.1 1.8 2.2-1.1zM502.3 123.1l-1.4 1.7 .1 .8 .5 .7 1.5 .3 .3 1.1 1.6 1.3 -.3 1.1 -1.6 1 .2 1.7 -1.9 .5 -1.2-.8 -.8 .5 -1.3 0 -.6-1.7 -.8-.3 -.2-.4 1.3-2.3 -.3-.5 -1.9 .3 -1.2 1.4 -.4 .6 -.5 2.5 .3 .4 .2 1.6 1.6 1 .3 1.1 1.9 .2 .8 1.1 -1.1 1.5 .4 1.6 1.4 .6 .2 1 1.7 1.1 .6-.2 1.1 .1 .4 1.9 .8-.1 1.1-.5 1.1 2.3 .7 0 .1 .4 .5 .2 .2 .7 -1.1 2 -1.2-.4 -.5 .4 -.4 1 .6 1 -.1 .7 -1.2 .8 1.1 2.5 -2-.1 -1-.9 -1.1 1 -.3 1.9 -2.4-1 -.4 .1 -1.1 1.5 -2.8 0 -.4 .7 -1.1 .7 .3 1.9 -.7 .8 -1.7-.5 -1.1 .2 -1.4 4.7 -.7 .5 0 .4 1.5 1.4 1.8-1 1.2 .9 .5-.1 1 1.1 -.1 .9 .5 .6 2.2 .1 .9 .9 .7-.3 .8-.8 2.8 1.6 2.5-.1 .5-1.5 2.2 0 .6 .3 1.5-1.4 1.2 .1 1.2-.5 .5 .2 1.6-1 1.7 1.8 1.1-.2 .8 .2 .7 1.7 1.5 .2 .9-.6 .7 .1 .7 .4 1.3-.2 .8 .4 1.9-.8 1 .9 .8-.1 1.2-1.1 1.1-.4 .2-.7 1-.4 .8-1.4 .9-.1 1.1 .4 .7-.3 .3-2.5 -.3-1.7 .3-.4 2.3-.1 .1-1.5 -1-1.4 -1.5 .5 -.3-1.5 1.1-.9 1.2 1.1 1.2-.4 .4-1.2 .6-.4 1 0 1.5-1.7 -.1-.4 1.1-1.8 -.1-.7 2.3-1.3 -.3-1.1 .7-.4 .5-1.8 1.1 .2 .4 .5 2.1-.3 .7 .8 1.8-1.3 .8 .9 .3 1.4 1.3 .3 .4 1.8 .5 .3 1 2.3 .2 0 1.5-.9 1.5 1.7 .2 .6 -.7 .7 -.1 1.2 1.1 1.6 0 .3 -2.1 1.1 .4 .9 -1.6 2.6 .1 .3 -.7 .3 -1.3-.3 -1.5 .4 -.6 2.1 1.2 .8 .3 1.2 1.7 1.1 .5-.3 1.7 0 .8-1.6 1.4 0 .3-1.3 1.8-.5 .5 .9 1.6 .5 .9-1.8 -.2-.6 2.4-2.4 -.2-1.8 1.6-.8 -.1-1.8 2.5-.2 -.1-1.6 1.1-1.3 -.2-.7 .4-1.1 -.3-1.6 -2.1-.3 -2.5 .4 -1.1-.8 .2-1.2 -.1-.6 -.7-.8 .7-2.1 -.3-.9 2.4-.9 .7 .6 .5-.1 2.1 .7 -.3 2 .8 1 -.2 .4 0 2.5 2.4 0 .3-.5 -.4-1.5 -1-1 1.3-1.5 2 .1 -.3-2.5 -.4-.5 -.1-.6 1.9-1.3 -1-1.8 1.5-1.3 .8-1.5 .1-.7 -1.4-2 -.1-.6 -1.5-.5 .8-2.5 -1.1-.8 .5-2.2 -.8-1.7 -1.4-2.4 -.5 0 -.8-.6 .7-2.6 -2.1-.1 -.4-1.1 -.8-1.1 -1.4 .1 -.9-1.9 -1-.3 -.3-2 -.9-.5 0-.6 -1.6-2.7 -1.7 1.4 -1-.5 -1-2 -.7 .2 -1.8-.8 -.3-1.2 -2.9-1.9 -.9 .5 -.5 2.1 -.6 .5 -1.2-3.2 -.6-.1 -.9 .5 -1.9-1.3 -1.3-1.9 1.9-1 1.1 1.2 .8 .2 1.3-.9 .1-.9 .3-.6 2.5 .2 .5-.5 0-.6 1.2-1 1.5 .4 .5-.5 .1-1.1 1.3-.7 .1-2.2 -.6-.4 -.1-.5 .7-2.2 -1-1.3 1-1.5 -.4-1.4 .2-.9 -1.3-.9 -1.8 .6 -.5-.2 .9-1.9 .5-.5 0-.7 1.3-1 -.1-1.8 1.1-1 .3-.7 -.2-.5 .6 .3 1.1-.5 .5-1.9 1.1-1 0-.4 .7-1 -.4-1.8 1.9-.4 .6 .5 .1 .8 2.1 1.3 .2 .5 -1.7 .6 -1-.7 -1.6 1.5 .1 .4 1.7 .9 .5-.3 2.5 0 .5-1.5 .7-.2 1.1-1.7 .7-.3 .2-2.2 .9-.6 1.4 1.1 .7 0 1.3 .7 .2 1.2 .5 .5 2.7-1.2 .5 .4 -.3 1.9 .9 .6 2.3-.2 .2 .3 2.3-.8 .4 1.1 2.1 .3 .2 .5 1.8 .9 .2 1.1 1.1 1.2 1.5-.5 .8-1.7 .6 0 1.2 1.8 1 .4 .9-2.5 1 0 1.2 .6 1.9-1.7 -.1-1.2 .9-.8 -.7-2.3 .2-.7 -.2-.5 -1.2-.6 -.3-.9 -1.2-1.1 .5-1.4 -.2-.7 -1-.3 -1.8-1.6 -3.2 .4 .5-2.2 -1.2-.7 -2.1 0 -.4-1.5 -1-.9 -.6-.1 -1-2.2 -2-.1 -.3-1.3 -1.8-.6 -.1-1.2 1.8-1.2 .2-.8 -2-1 -1.8 .5 -.6-2 .1-.4 -.9-1.9 -.7-.4 -1.5 1 -1.8-.3 -.9 .8 -1.3-.7 -1.2 .1 -.6 .8 -.5 .3 .2 2.4 1.3 .4 -.2 1.6 -1.1 1.1 .2 1.2 -2.5 .5 -.4-.3 -2.3 .4 -.6-1.5 1.7-1.5 -.2-1.3 -1.1-.8 -.1-1.1 1.4-1.5 -.4-1.4 -2.7 .1 -.3 .4 -2 .6 -1.6 1.1 -1-1.9 -.9-.5 -1 .7 -1.6 0 -.4-.3 -1.4-.2 -1.8 1.2 -.1 .7 1.1 1.4 2.1-1.2 .5 .7 .1 1.9 1.4 0 .5-.5 1.7 .1 .2 1.5 -1.7 .5 .2 2.4 -.8 .4 -1.2-.5 -1.5 .9 -.5 1.7 1.5 .8 -1.3 2.5 1.2 .6 .2 1.9 .6 .6 -.9 2.1 .4 .7 .4 .2 1.2-.2 1.9-2.3 .8 3 -1.2 .1 -1.7 2.1 -.1 .3 -1 .4 -1.1-.5 -.4-1.5 -1.8-.6 -.6 .4 -.2 1.7 -1.6 .8 .3 1.2 1.5 1 -1.2 1.5 .3 .9 1.2 .7 .3 .7 -.8 .9 .1 .8 -2 1.6 -1.7-.2 -.7-.4 -1.4 .9 -.9-.2 -1.6 1.8 -.1 .3 -1.3 .7 -.4 1.1 -.8 .7 -.1 .7 -.4 .5 -1.2 .7 -.2 .3 -2.8 .6 -.8 1.8 -.9 .5 -1.9-.8 -1.3 .9 1.3 2.5 -1.7 .7 -.1 1.4 .3 1.7 1.9 .4 -.9 2.1 1.5 .7 -.1 1.7 .3 .3 1.1 .3 .1 .8 -1 1.1 -.1 1 1.6 .7 .2 .8 2 1.2 .7-.1 .5 .3 1 2.3 .4 .1 1.4-.8 1.4 .4 .5-.2 1.7 .8 -.8 2 2.4 .6 .2 1.6 .7 1.4 1.9 .3 1.3 .7 .1 1.1 1.5 .9 .4 1.9 .9 1.2 2 .7 1.4 .1 .9 2 1.1 .1 -.1 2.1 .5 .9 -.3 .8 -.7 .5 -.7 3.6 -.5 .2 .4-.9 -.7-.7 -2.5-.3 -.3 2.3 -2-.2 -.8 .7 -1.6-.9 -1.4 0 -.6-.3 .9-2.2 0-.7 -1-.8 -2.6 0 .2-1.2 -1.5-1.2 -2.2-.2 -.9 .5 -.1-.4 -.5-.2 -3.1 .7 .4 1.6 -.9 .4 -1 1.7 .3 .8 -.7 1.4 .9 1 -.2 1.5 -1.4 .5 -.9-.4 -.1-2.5 -.7-1.9 .9-1.1 .1-1.1 -1.2-1.5 .8-1.3 1.8 1.3 1.6-1 -.4-1.5 -.3-.1 -.6-1.4 -1.7-.6 -.6-.8 -1.8 .2 -1.2 2.3 .4 1.5 -.9 1.1 .6 1.2 -.7 .5 -1.6-.8 1.4-.9 -.6-2.5 -.6 0 -.8-1.8 -.6-.3 -1.5 0 -.4-.9 -2.1-1.4 1.3-3.2 -.2-.8 -3-.3 -.5-.4 -1.2 .9 -2.1-1 -1.1 .9 -.9-.3 -1.9 1.2 -.4 1.2 -2.4-.1 -.4 .3 -1.5-.6 -1.5 1.3 -.5 .9 -1.1 0 -1.1 .5zM547.9 144l-.2-.3 .4-.2zM515.1 161l.1-.3 1.2 .4 1-2.8 .4 0 .9 1.1 1.7-.2 .3 .2 2.3-.9 .8 .4 .2 .4 -.2 .8 -2.9 .7 -.3 1.2 -3.4 2 -1.4-2.1 -.4 .1zM515.7 157.4l-.1 0 .1 0zM512.8 151.9l-.4-.1 -2.1 .6 -.2 .4 .1 1 -.2 .5 -2.8 .1 1-2.3 .9-.4 .4-1.3 .7-.5 1.5 .3 1.3-1.3 .8 2.4 .4 .1 1.1 1.9 -.2 .2 -.9 .9 -.8-.2zM519.6 145.6l-1.8 0 .5-2 .8-.2 1-3.3 2.2-.4 .6 1.6 1.1 .2 1.3-.9 .2-.5 2.1-1.2 .9 2.5 2.8 .5 .3 1.1 -1.5 1.2 1 1.8 -1.3 .5 -1.9-.7 -.6 .2 -.6 1.6 -1.3 2.2 -1.2-.3 -.4-.6 1-1.3 -1.6-1.8 -.9 .6 -.4 1 -1.7 .1zM526.7 132.8l-.1 0 .2-.1zM505.7 143.6l-1.7-.9 -.6-1.7 2.4-.2 .5-1.5 .4-.3 1.3 .6 .3 1.1 1.8 1 .4-.1 1.4 1.8 -1.2 .9 -2-1.1 -.9 .6 -1.2-.5zM513.2 130.7l1.3-.4 .4-.9 .9-.5 1.3 .6 1 1.1 2.2-1.6 1.1-.1 .2 .6 -.3 0 -1.6 2.1 .1 .5 2 .9 -.6 1.2 -.9 .6 -1.6-1.2 -1.5 1.7 -1 .1 -.2 .3 -.6-.4 -2.8-.3 -.8-.7 .2-1 -1.2-1 -.3-1.1 1.8-1.1zM496.7 163.9l-.2 1.2 -.6 .3 -1.6-.5 0-2.3 .6-.3zM513.3 143.5l-.1 .5 -.2-.3zM515.4 139.7l-.5-.2 .7-.3zM511.1 140.5l.6-1.5 2.6 .3 -1.4 1.4zM519.5 137.5l.5-.9 .1 .3zM525.1 136.8l0 0 0 0zM528.7 168.4l-1 1 -.7 0 -1.2-2 1.6-.8zM523.5 164.6l1.4 .8 0 1.5 -2.2-.7 -.2-.8zM530.8 153l2-3.1 -.7-1.6 2.2-1.2 1 1.6 -1.6 1.1 1.1 2.5 .4 .3 .2 1.1 -1.9 .8 -.6-.3 -1.9 .4zM519.4 169.1l0-.1 0 .1zM519.3 168.1l-.1 .1 -.1 0zM528.5 163.5l1.5 2 -2.4 .6 -.6-2.2zM538.9 132.9l1-.2 2.6 1.1 -.3 1.4 -1.4 .1 -1.5-2 -.2 .1zM547.2 113.4l-.4-.2 .2-.3zM546.6 102.9l1.7-.9 .6 .8 -.5 1.1 -.5 .3zM545 88.6l0-1.4 1.7-.9 1 2.5 -1.3 .5zM538.4 98.2l.5-.3 .6 .2 -.4 .7 -.2-.4zM567 68.6l.1 .2 0 0zM554.1 85.2l0-.1 .1 0zM562.9 57.1l.5-.1 -.5 .2 -1.1-.6zM571.8 65.7l.9 .2 .6 1.7 -1.4 1.2 -1.4-.8 0-.5 .1-1.2zM571.7 61.4l0 0 -.1 .1zM579.2 65.7l.7 1.7 1.5 .8 -.6 1 -1.9 .6 -.5-1.3 -1.5-.5 -.4-.3 2.3-2zM586.5 70l1.1 .5 .6 2 -2-.1 -.6-.4 .3-1.7 -.8-.7 -.4-1 .6-2 .3 0 2 1.2zM594.9 75.2l1.8-1.6 1 1.3 -.2 .8 -.5 .2 -1.8 0 -.4 .4 -2.4 .1 -.2-1.7 1.6-.8zM581.3 73.2l.4-.8 .6-.3 2.1 .7 -.1 1.7 1 .5 .8 1.7 -1 .6 -1.9-1.5 -1.1 .5 -.9-.4zM553 119.4l-.1 0 .1-.1zM560.9 122.5l1.3-2.4 .8 .1 .9 .7 -1 1.6zM557 137.5l0-.1 .1 0zM573 136.5l.1-.8 .4 .9 .3 .2zM564.4 141.5l-.1 0 .2 0zM571.5 143.3l-1.2 .5 0 0zM530.3 119.7l-1.1 1.8 2.3 .8 -.6 1.3 3.1 1 .2-.5 -1-2 -1.1-.2 -.4-1.3z"/>
<path fill="#aec7e8" d="M445.9 61.5l-.1 1.9 -1.2 1.2 -.7 0 -.8 1.5 -2.3-.2 -.4 1.5 -.6 .4 -.3 1.2 1.2 1.8 -2 1 -.2 .7 .8 1.5 -.9 1.3 -.1 .7 .7 .7 .1 2.1 .8 .5 1.6 1.7 -.3 1.5 2.4 .9 .1 1.7 1 .6 -.3 1.6 -1.5 .8 .1 1.2 -1.1 1.3 1.4 1.2 -.2 1.4 .7 .8 -.5 1.6 -1 .1 -1.1 .9 -.3 .7 .9 1.3 1.2 .3 .6 .5 .1 1.2 -.3 .2 -.1 1.4 -1.9 1.7 .3 .5 1.6 .9 -.1 2 1.1 .8 .1 .7 -1.6 1.8 -.1 .4 1 1.1 1.3 .3 .5 2.1 1.8-.7 1.2 .1 .8-.6 .2-.6 1 1.2 .1 .7 1.5 1.2 -.6 1.8 1.1 .9 .2 .5 1.1 .7 1.5-.7 1.9 .5 -.9 1.7 1.1 1.6 -.8 2.8 1.1 1.3 1.4-.4 2.5 2 1.5-.2 .5 .3 2.3-.2 .7 .5 0 1.2 .2 .6 1.5 .3 1.3-1.1 .2-.5 1.3-.8 2.1-.2 .9 .5 1.4-.4 .9-2.2 1.6 .6 1.3 1.6 .1 2 1.4 .6 .6 2.6 3.5-1.2 .6-1.6 .5-.2 -.6 1.3 .3 .6 1 .9 1.8-.4 .5 .3 2.2-1.1 .5 .3 1.3 .1 .5-.2 .6-2.4 1.4-1.8 1.8-.2 .3-.7 .2 .5 1.1 .8 .8-.1 1.9-2.4 -.5-.7 -.1-.7 -1.3-1.2 .5-1.7 -.3-.3 -.5-2.1 1.1-1 .1-.7 -1.2-1.1 -.1-1.1 .6-.9 -.3-1.4 -.2-.1 .9-2.7 -1-1.6 2.7-1.2 .3-3.3 -.7-.5 -.4-1.4 1.6-.9 -.2-1.4 -2.1 .2 -1.2-1 -1.7 1.1 -.4-.2 -1.1 .1 -1.7-1 -1.2 .9 -.8-.3 -.3-2 -2.4 0 -.9 .7 0 .5 -1 .7 -1.6 0 -.6 .6 -1.8-1.2 -1.3 1.8 -1.1-.9 -1.4 .3 -.8-.5 -.7 .2 -1.4-.7 -1.8 1.2 -1-1 -2.7 .6 -1.5-.1 -1.3-2.4 -.2-.2 -1.8 .8 -.2 1.8 -.4 .1 -2.5-1 -.4 .8 -2.2 .6 -1.9 1.7 -.7-.3 -3.2-3.8 -1.8-.3 -.2-1.4 -.8-.5 -1.1-2.4 -1.4-1.9 -.9-.6 1.1-1.2 .7-.1 -.2-2.7 1.4-.6 1-1.8 2.1-.1 2.2 .4 .9-.5 1.3 .6 1.3-2.2 .7-.5 .9 .8 2.3-1 2.2 .3 1.2-2.5 .9 .6 2.1-.5 .5-2.9 .9-.6 2.3 .3 .6-.8 2 .2 .4-.4 .1-1.7 .7-.5 1.9 .4 .8-.5 2 1.5 .9-.6 1.9-.5 1.2 1 1-1.6 2.1 1.6 .4-.2 1.5 .3 .6 .7 1.1 .5 1.2-.3 1.2 2 2.8 0 .9 1.6 3.3-.8 .3 2.2 .2 .2 2.1-.1 .4 .2 1.5-.7 .4-1.5 -1.8-1.4 .2-.9 .6-.3 .5-1.1 -.1-.8 2.2-.9 .3-3.2 -2.2-3.7 0-1 2.3-2.3 -.2-2 -1.3-.5 -.7-1.9 1.1-.6 .7-1 -.2-1.2 .8-1.3 -.8-2.6 -1.4 .3 -1.3-1.3 -.4-.1 -1.8 1.4 -.2-.3 -2.6-.5 .1-1.4 -2-1.3 -.4-.9 -2.7 1.4 -.8-.6 -.5-.7 -1.1-.1 -.6-1.5 -2.1-.6 -.2 1 -1.7 1.2 -.7-.7 -1.7 .9 -1.3-1 -1.1 .7 -.3 .9 .1 1 -1 .8 -1-.4 -2 .5 .1 1.4 -2.9-.6 -.3 .5 .6 1.6 -2.2 .3 -1-.7 -1.1 .9 -.9 0 -1-2.4 -.9-.1 -1.1 1 -2-.9 -.3 .1 -.7 2 -1.2 .2 -1.3-1.2 -.2 0 -1.1 2.9 -1.6 .8 -2.3-.3 -.8 .5 -.5 .9 -2.1 .6 -.5-1.8 -.6-.3 -1.8 1.3 -1.5 2 -1.4-.9 -1.6 1.2 -1 1.4zM473.4 114.6l-.1-.5 -1-1.2 .7-1.9 1.8 .4 .4-.2 1.9 .7 1.1-1.5 1.2 1 -1.1 2.1 0 1.1 -1.6 .9 -1.2-.8 -1.2 .3zM473 70.1l-2.6 .1 0-.1 .3-.2 .5-1.2 1.5-1.1 1.2 1.4 0 .6zM457.7 119.4l0-.1 .2-.3zM458.8 72.1l0 0 0-.1zM458.2 71.8l-.3 .1 .4-1 .4 1.1zM450.3 104.6l.2 .3 0 .2zM449.2 98.4l.1 0 0 .1zM447.2 90.8l0 0 0 0zM451.9 70l.5 0 -.2 .4zM454.3 112.2l-.1-.1 .2-.1zM466.7 74.2l.2-.7 -.4-1 .7 1.5 -.2 .3zM465.8 57.8l-.2-.3 .5-.2zM469.1 56.5l0 .2 -.1-.1zM468.3 65.6l-.1 .1 0-.1zM468.5 65.5l0 0 0 0zM465.3 120.5l-.3-2.4 2.4 0 .8 .3 1.1-.7 .6 .1 .4 1.8 -1.4 1 0 .7 -.5 .6 -1-.4 -2.1 1.4 -.7-.8 .1-1zM465.9 114l0 0 0 0zM464.3 117.7l.1-.1 .1 .1zM469.5 112l-.1-.2 0-.1zM493.5 67.4l0-1.3 -1.2-.6 .1-.3 -.8-1.5 1.2-1.1 2.3 1.2 -1 1.7 .1 .3 2.1 1 .5 .9 -.1 .5 -2.7 .3 -1 1.8 -1-.3 -.6-1.3zM487.5 64.7l-.3-.8 1.2-.9 .8 1.2 -1.1 .9zM487.4 59l-1.7-.6 .1-1.1 3-.4 .1 .3 -.6 1.5zM479.5 68.3l-1.2-.8 0-1.8 .9-.9 1.6 1.1 -.3 1.3 1.7 1.6 -.1 .7 -.2 .3 -1.4 .3 -.4-.4zM483 58.8l1.7 .6 -.1 1 -2.2 1.2 -.4-2.3zM479.2 64.1l0 0 0 0zM488.2 71.7l0 0 0 0zM494.3 52.1l.2 .5 -.5 .3zM493.7 72.2l.3-.3 -.1 .5zM502.8 67.1l0-.1 0 0zM503.1 67.7l-.1 0 .1-.1zM506.3 55.4l.4-.1 .2 .4zM503.1 62.5l.1 .2 -.1-.1zM503.9 71.8l-.2 0 0-.1 0 0zM505.8 72l.2 0 0 .1zM506.4 72.5l0 .1 -.1-.2zM503.4 71.3l.1 0 0 .1zM506.7 73.4l-.1-.1 0 0zM490.6 109l-.2-.1 1.2-.5 .2-.4 .1 .4zM483.1 126.6l-1.2-.6 .6-3 -.2-.9 -.3-.2 .5 .3 1.4-.5 .6 .4 1.1 1.9 -.8 .5 -.9 1.3 -.6 .3zM485.6 119.4l-.2-1.5 1.2-.9 .9 .8 -.1 1.4 -1.1 .5zM488 123.3l-.2 .1 .1-.2z"/>
<path fill="#1f77b4" d="M510.5 55.1l-.9 1.3 .3 1.1 -.7 1 -1.2 .6 .8 2.2 1.3 .5 .2 1.7 -2.2 2.1 .2 .6 -.2 0 -.2 .7 1 1.9 1.3 1.8 -.3 1 0 2 -1.8 .8 -.3 1.2 .3 .7 -.9 .4 -.5 1.3 1.7 1.3 .9-.1 .9 .5 .2 .7 -1.4 .6 -.2 1.7 2.4 .1 .6-.6 1.5 1.5 -.4 1.4 1.4 1.3 -.1 .9 1.8 1 .2 1.4 1 1 1.1-.6 1.7 .2 .9-.6 .6 .2 1.2-.9 1.9 .4 .8-.6 .2-.6 -.1-.3 1.5-.9 .2-2.1 1.2-.4 .9 .5 1.7-.5 0-1.9 .5-.2 1-1.8 .7-.1 .7-1.1 .3-1.8 1.6-.9 -.2-1.8 1.6-1 .2-.6 -.2-1.5 .3-.6 -1-2.1 .7-1.1 -1.2-1.9 .8-.8 .1-1.6 1-.3 .4-2.4 -1.1-.7 .9-1.5 -.2-1.3 -.3-.3 -2.2 .3 -.4 1 -.7 .4 -.8 2 .5 .5 -.6 2.3 .3 1.3 -1 1 -.3 1.3 -.5 .2 -1.4-1.6 .7-1.2 0-1.3 -.5-1.3 1.2-1.5 .3-3.1 -.5-.4 -1.4-.7 -.5-1.4 -1.3-.5 -.1-1.1 -2.1-1.3 -.9 .6 -1.3-.8 -.1-.8 -1.4-1.6 -.8 .4 -.6-.1 -2.2 1 -1.1-.5 -1 .4 0-.2 -.7-.2 -1.2 .7 -1.5-.3 -.6-2.2 -.8-.2 -1.4 .5 .5 3.1 -1.5 .7zM520.9 80.5l-.3-1 .1 0 .4 .9 .6 .3zM525.1 76.7l0-.2 .2-.3 .2 .4zM516 78.1l-.7 .3 -1.3-.2 -.3-2.1 1.5-.6 .5 .1 .8 1.3zM517.3 59.2l-.2 .5 -.3-.7zM523 61.7l.2-.1 -.2 .1zM520.5 71.1l0 .1 -.1 0zM526 80.5l.4 1.6 -.8 1.2 -1.1-.5 -.4-1.8 1.3-.9zM509.9 96.9l-1 2.4 .1 .3 -.6 .3 -2-.2 -.2-.9 -1.1-.6 -.5 0 -1.2 1.3 -.7 .3 -.2 .5 .2 1.2 -1.7 1 .5 1.6 .7 .4 -.1 2.6 -.2 .5 -2.8 1.2 1 1.7 -.8 2.2 .5 2 2 1.1 -.3 1 -1 1 -.1 .6 -1.1 1 .4 2.3 .3 .3 -.4 1.7 1.4 1.3 1.3-1.7 2.2 1.2 .7-.5 1.6 .1 .6-1 1.4-1.2 1.2 .5 .6-.2 2.5 .1 .3-.2 .2-1.1 1.8-1.1 .9 .3 1.1-.9 2 1 1.2-.9 .4 .3 3.1 .3 .3 .7 2.8 0 .6-1.8 2.2 .4 .2 .6 1.3 .8 .4 1.4 1.1 .2 1 1.8 -.8 1.7 .6 .8 1.7 .6 .6 1.3 .7 .5 .1 .9 .5 .9 3.3-.5 .6-.3 .2-.5 .5 .8 2 .1 1.4 1.1 .2 1.3 2.3 .1 .9 .6 -.8 2.6 .6 .8 1.4 0 1.8 .8 .8-.6 2 .1 .3-2.2 2.3 .2 .8 .6 .6-.6 .4-2.3 .7-.5 .3-1 -.5-.9 .1-2.1 -1.1-.2 -1-2 -1.5-.2 -1.8-.6 -.9-1.2 -.3-1.8 -1.6-.9 -.1-1.1 -1.5-.8 -1.7-.3 -.8-1.3 -1.5 .1 -1.8-1.2 -1 .9 -.5-.1 -2 .5 -.8-1.7 .8-1.3 -.5-1.2 .2-.5 -1-2.4 -.6-.4 -.7 .2 -1.9-1.2 -.3-.9 -1.5-.6 .2-.8 -.7-1.5 .4-.8 -.2-.3 0-1.7 -1.4-.7 .9-2.2 -2-.4 -.3-1.5 .1-1.4 -1.5-1.2 -1 .3 -1.7-.8 -.6 .2 -1.3 1.6 -.6 1.5 -1.7-.8 -.8 1.5 -.4-.1 -1.8 .8 -.7-1.7 -1.9-.5 -2.1 0 0-1 -.9-1.4 .2-1 -1.7-1.2 -1.2 1.6 .9 1.3 .1 1.1 -1.1 .5 -1.2-.7zM522.2 106.7l-.2 0 .3-.1zM513 101.3l.2-1 1.1-.8 1.7 1.5 0 .4 -1.3 1.2zM505.6 118.4l1.4 .9 .4 .7 -1.3 .9 -1.3 .4 0-.9zM505.7 102.3l.1 0 0 .1zM506 101.7l.1 .3 0 0 -.1 0zM503.1 110.7l-.1-.7 .9 1zM535.5 118.8l.1-.3 .2 .4zM527.1 117.5l0 .2 -.1 0zM526.2 113.2l1.4 .7 -.1 .8 -.7 1.5 -1.9-.9 .2-1.3zM549.7 127.9l1.6-1.3 2.1 .5 .3 .8 .6 .6 -.4 1.1 -.8 .9 -1.4-.6 -1.3 .5 -1-.3zM503.1 126.4l-1.6-.3 -1.8 2.4 -.7 .2 -1.4-.6 -1.5 2.5 .3 .6 .9 .3 1.5-1 1.4 1.7 1.7-1.6 1.2 .6 1.7-.9 .3-1.3 -.1-.4 -1.5-1zM548.6 55.4l-.4 1 .5 2.1 -2.4 .8 0 1.1 1.4 1.4 -.4 1.2 -.7 .8 .3 1.8 .9 .3 .2 2.4 .7 .9 -1.2 1.5 .4 1.1 1.4 .5 .9 2.3 1.8-.8 .2-1.7 .4-.3 1.7 .6 .3 1.5 1.3 .5 1.1-.4 .2-.4 1.7-2.1 -1.7-1.1 -1.4 0 -.4-.6 .9-2.1 -.6-.6 -.2-2 -1.1-.4 1.3-2.6 -1.5-.7 .4-1.5 1.5-.9 -.6-1.7 -1.2-1.1 0-.8 -1.1-1.2 -.1-.9 -1-1.2 -.4-.2 -1.8 .7 .4 2.4zM551.6 65.6l-.1 0 0 0zM565.8 44.6l-.4 0 -2.1 1.5 -2.2-.4 -.9 .4 -.9 2 -1.2 .6 -.2 1.4 1 .6 1 2 1.8-1.1 2-.7 .3-.4 2.5-.1 .3 1.1 -1.4 1.5 .1 1.3 1.1 .8 .2 1.1 -1.7 1.5 .4 1.6 .5 .3 2.2-.5 .4 .3 2.7-.5 -.1-1.3 1-1.1 .3-1.8 -1.4-.4 -.2-2.2 .5-.2 .5-.7 1-.2 1.5 .7 .9-.9 -.4-2.3 -.5-.2 -1.7 .1 -.7-1.7 -1.3-.7 -1.3 .5 -.4-.4 -2.6 .1zM576.4 67.6l.3 .6 1.5 .5 .7 1.3 2-.6 .7-1.1 -.1-.3 -1.4-.8 -.6-1.6 -.4-.2 -.4 .1zM597.7 75.8l.2-1 -1.2-1.5 -1.7 1.6 -1.2-1.2 -1.8 .9 .3 2 2.6 0 .4-.5 1.8 0z"/>
<path fill="#440154" d="M458.3 248.8l-.5-.2 -1.6 1.2 -1.5 2 -1.4-1 -1.6 1.2 -.8 1.4 -2.1-.1 -.1 1.8 -1.1 1.1 -.7 0 -.8 1.5 -2.1-.2 -.4 1.5 -.6 .3 -.3 1.1 -1.7 1.2 .9 1.6 -.1 .6 .7 1.4 -.9 1.3 0 .7 .6 .6 .1 2 2.4 2.1 -.4 1.4 2.3 .9 .2 1.7 .9 .5 -.3 1.6 -1.4 .8 .1 1.1 -1.1 1.3 1.4 1.1 -.2 1.4 .6 .7 -.5 1.6 -1 .1 -1 .8 -.3 .7 .8 1.2 1.2 .2 .6 .5 .2 1.3 -.4 .2 -.1 1.3 -1.7 1.6 .1 .5 1.7 .8 -.2 2 1.1 .8 .1 .7 -1.7 2 1 1.1 1.3 .3 .4 1.9 1.7-.6 1.1 .1 .8-.6 .2-.7 1 1.3 .1 .6 1.5 1.2 -.6 1.8 1 .8 .2 .5 1.1 .6 1.4-.6 1.9 .4 -.9 1.7 1.1 1.6 -.8 2.6 1 1.3 1.4-.4 2.4 1.9 1.4-.2 .5 .3 2.2-.2 .7 .5 .2 1.6 1.3 .4 1.3-1 .2-.6 1.3-.7 2-.2 .8 .4 1.4-.3 .8-2.2 1.6 .6 1.3 1.6 .1 1.9 1.3 .6 .7 2.5 2.1-1 1-.2 .6-1.5 .6-.2 -.5 1.3 .2 .6 1 .8 1.7-.4 .5 .3 2-1.1 .6 .3 1.5 0 .4 .4 .1 1.6 1.5 1 .3 1 1.8 .2 .9 1.1 -1.1 1.4 .3 1.5 1.4 .5 .2 1.1 1.6 1 .5-.2 1.1 0 .4 1.9 .7-.1 1.1-.5 1.1 2.2 .6 0 .2 .4 .5 .2 .2 .7 -1.2 2.1 -1.2-.4 -.3 .2 -.4 1 .6 1 -.1 .7 -1.2 .7 1.1 2.5 -2-.1 -.9-.9 -1.1 .9 -.3 1.9 -2.3-1 -.3 .1 -1 1.2 -.1 .6 -.1-.4 -2.6 0 -.3 .7 -1.1 .7 .2 1.8 -.7 .8 -1.6-.5 -1 .2 -1.4 4.5 -.6 .4 0 .4 1.4 1.3 1.7-.9 1.2 .8 .5 0 .9 1 0 .9 .4 .5 2.1 .1 .9 .8 .6-.2 .8-.8 2.7 1.5 2.3 0 .6-1.5 2.1 0 .5 .3 1.5-1.4 1.2 .2 1.1-.5 .4 .2 1.6-1 .3 .1 1.3 1.6 1.1-.1 .8 .2 .7 1.6 1.3 .2 .9-.6 .7 .1 .7 .4 1.3-.2 .7 .4 1.8-.8 1 .8 .7 0 1.2-1.1 1-.3 .2-.7 1-.4 .8-1.4 .8-.1 1.1 .4 .6-.3 .3-2.3 -.3-1.6 .3-.5 2.2-.1 .1-1.4 -.9-1.3 -1.5 .6 -.3-1.6 1.2-.9 1.1 1 1.1-.3 .4-1.2 .6-.4 .9 0 1.5-1.5 -.2-.4 1.1-1.8 -.1-.6 2.2-1.2 -.3-1.1 .7-.4 .4-1.8 1.2 .2 .3 .5 2.1-.3 .7 .8 1.7-1.3 .8 .9 .3 1.3 1.3 .3 .3 1.8 .5 .3 .9 2.1 1.6-.8 1.6 1.7 .1 .5 -.6 .8 -.2 1.1 1.1 1.5 0 .3 -2 1 .4 .9 -1.5 2.5 .1 .3 -.8 .3 -1.2-.3 -1.4 .4 -.5 1.9 1.1 .9 .2 1.1 1.6 1 .5-.3 1.7 0 .7-1.5 1.3 0 .3-1.2 1.8-.5 .5 .8 1.5 .5 .8-1.7 -.2-.5 2.4-2.3 -.3-1.8 1.6-.8 -.2-1.7 2.5-.2 -.1-1.6 1-1.1 -.2-.7 .4-1 -.3-1.5 -2-.3 -2.3 .4 -1.1-.8 .2-1.2 -.2-.6 -.7-.7 .7-2.1 -.2-.9 2.3-.9 .7 .6 .4-.1 2.1 .7 -.3 2 .9 .9 -.3 .4 0 2.4 2.3-.1 .2-.4 -.4-1.4 -.9-1 1.2-1.5 1.9 .1 -.2-2.3 -.5-.4 -.1-.7 1.9-1.2 -.9-1.8 1.3-1.3 0-.3 .8-1.1 .1-.6 -1.3-1.9 -.1-.6 -1.5-.5 .9-2.4 -1.1-.8 .4-2.1 -.7-1.6 -1.4-2.3 -.4 .1 -.8-.6 .7-2.5 -2.1-.1 -.3-1.1 -.8-1.1 -1.3 .1 -.9-1.8 -1-.3 -.3-1.9 -1-.5 .2-.5 -1.6-2.7 -1.5 1.4 -1-.5 -1-1.9 -.6 .2 -1.8-.8 -.3-1.1 -2.7-1.9 -.9 .5 -.4 2.1 -.7 .5 -1.2-3.1 -.5-.1 -.8 .5 -1.9-1.3 -1.3-1.9 1.9-1 1.1 1.2 .7 .2 1.3-.8 0-.9 .3-.6 2.4 .1 .5-.4 0-.6 1.2-1 1.5 .4 .4-.4 0-1.1 1.3-.7 .1-2.1 -.6-.3 -.1-.5 .7-2.1 -.8-1.1 -.4-.2 .2 0 1-1.4 -.4-1.3 .2-.9 -1.2-.8 -1.7 .6 -.6-.2 .9-1.9 .5-.5 0-.7 1.3-1 -.2-1.7 1.1-.9 .3-.6 -.4-.9 .8 .5 1-.4 .5-1.8 1.1-1 -.1-.4 .7-.9 -.4-1.8 1.9-.3 .7 .5 0 .7 2 1.2 .3 .6 -1.8 .6 -.8-.7 -1.5 1.4 .1 .3 1.6 .9 .4-.3 2.3 0 .5-1.4 .7-.2 1-1.7 .8-.2 .1-2.1 .9-.6 1.4 1.1 .6-.1 1.4 .7 .2 1.2 .3 .5 2.6-1.2 .6 .4 -.3 1.8 .8 .6 2.2-.2 .2 .2 2.3-.7 .4 1.1 2 .3 .2 .5 1.7 .8 .2 1.1 1 1.1 1.4-.5 .8-1.7 .6 .1 1.2 1.7 .9 .4 .8-2.4 1 0 1.1 .5 1.8-1.5 -.1-1.1 .9-.8 -.7-2.3 .2-.6 -.2-.5 -1.1-.5 -.4-.9 -1-1 .4-1.5 -.2-.6 -.9-.2 -1.8-1.6 -3 .4 .5-2.1 -1.2-.7 -2.1 0 -.3-1.4 -1-.9 -.5-.1 -1-2.1 -1.9-.1 -.3-1.2 -1.7-.6 -.1-1.3 1.7-1.1 .2-.7 -1.9-1 -1.3 .6 -.4 0 -.7-2.1 .1-.3 -.8-1.9 -.7-.3 -1.4 1 -1.6-.3 -.5-2.2 -2-.1 -.8-1.6 -1.1-.6 -1.2 .5 -.4-.4 -2.6 .1 -.5-1.6 -.4 0 -2 1.5 -2.1-.4 -.9 .4 -.8 1.9 -1.1 .5 -.2 1.3 -.8 .7 -1.7 0 -.3-.3 -1.3-.1 -1.7 1 -.1 .6 -1.8 .6 .4 2.3 -1.7 .4 -.3 .9 .2 .6 .2 1.5 -2.3 .6 0 1.1 1.4 1.4 -.4 1.1 -.7 .8 .3 1.7 .9 .3 .1 2.4 .8 .8 -1.2 1.5 .4 1 1.3 .4 1.2 3.3 1.4 1 -1.2 1.5 .3 .7 1.2 .7 .2 .8 -.7 .8 0 .8 -1.8 1.6 -1.8-.2 -.6-.3 -1.3 .8 -.8-.3 -1.6 1.7 0 .3 -1.4 .7 -.3 1.1 -.8 .7 -.1 .7 -.4 .5 -1.2 .6 -.1 .4 -.3-.2 -2.4 .6 -.8 1.8 -.9 .5 -1.8-.8 -1.2 .8 1.3 2.5 -1.6 .6 -1.4-1.1 -1 .3 -1.5-.8 -.6 .2 -1.3 1.5 -.6 1.5 -1.6-.8 -.7 1.5 -.5-.1 -1.6 .8 -.7-1.7 -1.9-.4 -2.1 0 .1-1 -.9-1.5 .2-.9 -1.6-1.1 -1.1 1.5 .9 1.2 .1 1.1 -1.2 .6 -1.4-.8 -.9 2.3 .2 .3 -.7 .4 -2-.2 -.2-1 -1.4-.5 -1.2 1.3 -.7 .2 -.1 .4 -2 .2 -1.1-.9 -1.6 1 -.3-.2 -1.1 .1 -1.6-.9 -1.2 .8 -.9-.3 -.2-1.9 -2.3 0 -.8 .7 0 .4 -1 .8 -1.5 0 -.6 .5 -1.7-1.1 -1.3 1.7 -1.1-.8 -1.3 .2 -.8-.4 -.6 .1 -1.4-.6 -1.7 1.1 -1-.9 -2.6 .5 -1.4-.1 -1.5-2.4 -1.6 .7 -.2 1.7 -.5 .1 -2.3-.9 -.4 .7 -2.1 .6 -1.9 1.7 -.7-.3 -3-3.7 -1.8-.3 -.1-1.4 -.9-.4 -1-2.3 -1.3-1.8 -.9-.7 1.1-1.2 .6-.1 -.2-2.5 1.4-.6 .9-1.8 2.1-.1 2.1 .4 .8-.5 1.3 .6 1.2-2.1 .8-.5 .8 .8 2.2-1 2.1 .4 1.1-2.5 .9 .6 2.1-.5 .2-2.1 .3-.7 .8-.5 2.2 .2 .5-.8 2 .3 .3-.4 .1-1.6 .7-.5 1.9 .3 .8-.5 1.9 1.5 .9-.6 1.8-.4 1.1 .9 1-1.6 2 1.6 .4-.2 1.4 .4 .6 .6 1 .4 1.2-.3 .3-.9 .3-.2 -.6 1.2 1.1 1.9 2.7 0 1 1.5 3.1-.8 .3 2.2 .2 .2 2-.1 .3 .2 1.4-.7 .4-1.3 .8-.2 .9 .5 .2 .7 -1.3 .6 -.2 1.6 2.3 .1 .8-1.3 -.3 .8 1.5 1.4 -.3 1.3 1.3 1.3 -.1 .9 1.8 .9 .1 1.3 1 1 1-.6 1.6 .2 .9-.6 .6 .2 1.1-.8 1.8 .3 .7-.5 .3-.6 -.2-.5 .2 .2 1.3-.9 .1-1.9 1.3-.5 .8 .5 1.6-.4 0-1.8 .5-.3 .9-1.7 .8-.1 .6-1 .3-1.8 1.5-.8 -.1-1.7 1.5-1 .2-.5 -.3-1.5 .4-.5 -1-2.1 .7-1 -1.2-1.8 .8-.8 .1-1.6 .9-.3 .5-2.2 -1.2-.8 1-1.4 -.3-1.2 -.2-.2 -2.1 .3 -.3 .9 -.7 .3 -.7 1.9 .4 .5 -.6 2.2 .3 1.3 -1 1 -.3 1.3 -.5 .2 -1.4-1.7 .7-1.1 0-1.2 -.5-1.3 1.2-1.5 .3-2.9 -.4-.1 -.1-.3 -1.4-.6 -.5-1.4 -1.2-.5 -.1-1 -2-1.3 -.8 .6 -1.3-.8 -.1-.7 -1.3-1.6 -.8 .4 -.5-.1 -2.2 1 -1-.5 -1 .4 0-.2 -.7-.1 -1.1 .6 -1.4-.3 -.7-2.1 -.7-.2 -1.4 .5 .6 2.9 -1.4 .6 -1.3 .3 -1.2-1.2 -.4-.1 -1.7 1.3 -.2-.3 -2.5-.5 -.2-.2 .3-1.1 -2-1.2 -.4-.9 -2.5 1.4 -.8-.6 -.4-.7 -1.1-.1 -.6-1.5 -2-.6 -.1 1 -1.7 1.3 -.6-.7 -.2-.7 .7-1.1 -.8-1.6 2.4-1 1.1-1.2 .8 0 1.6-.7 .2-.7 -1.5-1.3 .9-2 -2.4 .1 -.2-.8 -1-.8 -2.1-1 -.8 .7 -.2 .9 -.8 .8 -.1 1.7 -.7 .7 -.6 1.1 -.4 .1 -1.2 1.5 .3 1.3 .8 .7 -.4 1.1 -1 .9 -1.3 0 -.3 .2 -.5 1.3 .1 .2 -.7 .3 -.3 1.5 -2.1 .6 -.6-.4 -.8 .1 -1.4-.4 -1 .5 -.2 1 -1.7 .6 -.8-.1 -.3-1.7 -1-.9 -1.4 1 -.4 1.6 -1.8-.3 -1.6 1.3 -1.8-.1 -1 1 -1.3-.2 -1.2 1.8 .3 .9 -.6 .4 -.5 .9 -2.1 .6zM519.3 356.3l.1 .2 -.2 .1zM519.1 355.8l-.2-.2 .4-.1zM515.8 349.6l-.3 .1 -.4-1 .1 0 0-.3 1.2 .4 1-2.7 .4 0 .9 1.1 1.6-.2 .3 .1 2.2-.8 .9 .4 -.1 1.3 -2.8 .6 -.2 1.1 -3.4 2zM516.3 338.4l.1-.1 .7 .4zM518.2 332l.7-.2 1-3.2 2.2-.3 .6 1.5 1.1 .2 1.2-.9 .1-.5 2.1-1.1 .2 .1 .7 2.3 2.7 .5 .3 1.1 -1.5 1.1 1 1.8 -1.3 .5 -1.8-.7 -.6 .2 -.5 1.3 .1 .3 -.2-.1 -1.2 2.2 -1.2-.3 -.5-.6 1-1.3 -1.5-1.7 -.7 .6 -.4 .9 -1.7 .1 -.6-1.9 -1.8 .1zM519.4 326.2l.1-.8 .4-.1 .3 .5 -.4 0zM516 324.4l-.5-.2 -2.7-.4 -.8-.7 .1-.9 -1.1-1 -.3-1.1 1.9-1.1 .8 .6 1.2-.3 .3-.9 1-.5 1.3 .5 .9 1.1 2-1.6 1.1 0 .1-.2 .4 1 -.5-.2 -1.5 2 .1 .5 1.9 .8 -.6 1.2 -.9 .7 -1.5-1.2 -1.5 1.6 -.9 .1 -.2 .5zM518 296.2l0 0 0 0zM516.9 252l.2-.4 -.4-.9 .8 .4 -.2 .1zM484.4 315.6l-1.1-.5 .5-2.9 -.5-1 .6 .2 1.4-.5 .6 .4 1.1 1.9 -.9 .5 -.8 1.3 -.6 .3 -.2 .6zM494.8 263.8l-.2-.3 .1-.3 .4 0zM492.4 260.1l2.1-1.3 -.1-1.2 -1.2-.5 .1-.3 -.8-1.5 .5-.2 .8-.9 2.3 1.2 -1 1.7 2.1 1.2 .5 .8 -.1 .6 -2.6 .3 -1 1.8 -1.1-.3zM495.3 244l.1 .6 .2 .1 -.8 .3zM471.3 301.8l.1-.4 .2 .5zM470.1 270.4l-.1 0 .2-.1zM472.1 262.4l.2-.4 .1 1.1zM472.2 261.4l.3-.1 .5-1.2 1.5-1.1 1.3 1.4 -.1 .6 -.9 .6 -2.4 0 -.1 .2zM470 257l.5 0 .1 .1 -.5 .2zM470.7 248.7l-.1-.1 .1 0zM470.9 248.6l.2-.5 .1 .6zM472.4 245.2l-.1 0 .1-.1zM449 272l0-.1 .1 .1zM449.4 272.2l0-.1 .1-.1zM452.7 261.4l0-.1 .2 .1zM454.7 261.2l.4 .2 -.2 .5 -.2-.4 -.5-.1zM454.4 255.6l0 0 0 0zM444.7 268.1l.1-.1 0 .2zM446.1 266.5l0 .1 -.1 0zM454.9 265.8l.2 0 .2-.1 -.3 .1zM449.4 281.5l.7-.2 .1 .2zM451.9 288.6l.3-.1 -.2 .5zM450.1 294.7l-.1-.1 .1 0zM453.2 294.4l.1 .5 -.1 .3 -.3-.7zM456.7 302.2l.3-.6 -.2 .6zM460.2 263.4l.4-1.2 .5 1 .3 .2 -.8-.2zM464.3 248.9l-.3-.1 .2-2.5 1.7 1.9zM467.6 249.3l.7-.3 -.4 .8zM462.5 253.6l0 .2 -.1-.3 -1.3-.5zM468.7 263.7l.6 1.5 .2 .1 -.4 0 0 .3 -.4-.2 .2-.6 -.5-1.2zM471.2 315.1l-.6 .2 .6-.3zM469.5 310.9l-2.1 1.4 -.7-.9 .1-1 .6-.6 -.3-2.3 2.3 0 .8 .3 1-.7 .6 .1 .5 1.8 -1.4 1 0 .7 -.5 .6zM466.3 307.1l.3-.1 .2 .3zM467.9 303.4l.1 .2 0 .2 -.2-.4zM460 308.8l.3-.4 -.2 .5zM477.1 292l.1 0 -.3 .1zM474.1 302.6l.7-2 1.8 .5 .3-.2 1.8 .6 1.1-1.5 1.2 1.1 -1 2.1 -.1 1 -1.6 1 -1.1-.8 -1.2 .2 -.8-.3 -.2-.6zM473.7 307l-.4-.2 .1 0zM481 259.7l-1.2-.7 .1-1.7 .9-1 1.6 1.2 -.4 1.2 1.7 1.5 -.1 .8 -.3 .2 -1.3 .3 -.4-.4zM486 251.2l0 1 -2.3 1.1 -.4-2.2 1.1-.5zM477.3 245.4l.5-.3 2-.5 .5 1.6 -2.2 .3 -.8-.7zM479.7 254.1l-.1 0 0-.1zM480.7 255.8l-.1-.3 .3 .2zM479.7 253.7l.1-.2 -.2 .3zM486.9 250.4l.1-1.3 3-.3 .1 .2 -.6 1.5 -.9 .4zM490.4 255.9l-.4 .5 -.7 .3 -.6-.4 -.4-.8 1.3-.9zM489.2 263l.2 0 .2 .2zM500.8 321.4l-.7 .5 -1.3 .1 -.7-1.7 1.5-.9 1.3 1.7 1.7-1.6 1.1 .6 .2 1.6 -1.9 .5zM500.1 305.1l.5-.7 1.9 .9 -.3 1.1 -.9 .8 -1.2-.9zM503.6 300.4l-.1-.8 .5 .2 .2 .7 .4 .1 -.1 .3zM502.8 297.2l0-.3 0 0zM492.7 298.2l.1-.5 .3 .6 -1.5 .6 -.2-.2zM488.6 294.9l-.1 0 .1 0zM490.8 301.3l.2-.1 -.2 .4zM491.1 301.1l0 0 0-.1zM488.8 312.7l.3-.5 .2 .5zM487.9 306.4l.8 .9 -.1 1.3 -1.1 .5 -.6-.2 -.3-1.6zM489.1 311.8l0 .1 -.1-.1zM497.6 294.4l0 0 0 0zM498.8 294.7l0 0 0 0zM496.7 304.8l.1-.1 0 .1zM500.3 302.9l-.2-.1 .1 0zM497.2 305l0 0 0 .1zM498.7 316.9l1.1 .8 .5-.1 -.6 .2 -1.3-.6 .1-.8zM504.1 352.8l-.3 .3 -.1-.1zM503.7 348.7l0-.1 .1-.2zM496.5 357l0 0 0 0zM497.6 351.5l-.1 1.2 -.7 .3 -1.6-.4 0-2.3 .7-.3zM496.8 353.2l0 0 0 0zM508.5 340.2l.9-.4 .4-1.3 .7-.5 1.4 .3 1.3-1.2 .8 2.3 .4 .1 1 1.8 -1.1 1.2 -.8-.2 -.5-2.3 -.4-.1 -2 .7 0 1.3 -.3 .4 -2.8 .2zM509 331.7l-.7 .3 -.1 .3 -1.2-.5 -.9 .3 0-.2 -1.6-.6 -.6-1.8 2.4-.2 .4-1.4 .4-.4 1.3 .7 .3 1 1.8 1 .3-.1 1.5 1.8 -1.4 .9zM514.3 327.7l.7 .4 .9-.6 -.4 .9 .3 .8 -.4-.9 -.9-.3 -1.3 1.3 -1.9-.1 .6-1.7zM510.5 311.6l0 0 0 0zM510.7 307.9l0 0 .1 .1zM510.5 307.2l.3-.1 -.2 .2zM510.6 303.7l0-.1 .1 .1zM506.3 292.3l.1 .3 -.3-.1 -1.1 .4zM506.7 292.1l.2 .1 -.6 0 .1-.8zM505.3 310.7l-.1-1 .8-2 .3 .1 1.1 .9 .5 .7 -1.3 .9zM505.8 313.2l-.3 .1 .2-.2zM512.3 297.6l0-.2 .2-.2zM516.1 291.1l.1 .5 -1.4 1.1 -1.7-1.3 .2-.9 1.1-.9zM514.7 288.4l.1-.2 -.1 .4zM513.6 332l.1 .2 -.3 .5 -.4-.6zM515.6 345.5l.1-.5 .2 .3zM507.6 267.9l-.6 1.1 .2-1zM508.5 267.5l-.6 .2 .4-.9zM504.2 263.2l-.3-.5 .2-.2 .1 .4 .4 .2zM503.5 259.2l-.2-.6 .1-.2 .4 .9zM503.6 254.3l0-.4 .3 .8zM503.6 253.3l-.1-.2 .2 0zM499.3 245.2l0 0 0 0zM506.8 247.1l.4 0 .2 .6 -.7-.3zM504.7 246.7l0 .1 -.1-.1zM505.5 246.4l0 0 0-.1zM508.8 257.8l-.3-.4 .1-.1zM506.5 263.4l-.4-.1 .4-.1zM507 263.7l.1 .8 .3 .3 -.5-.2 -.2-1zM508.1 265.6l.4 .1 -.2 .4zM516.4 257.2l0 0 0 0zM516.2 269.2l-.8 .3 -1.3-.2 -.3-2.1 1.5-.6 .5 .1 .8 1.3zM543.4 327.4l-.1-.1 .1 0zM538.4 322.2l-.2 .1 -.3-.6 .3 .1 .8-.4 2.6 1.2 -.4 1.4 -1.4 .1zM541 319.1l-.9 .4 -.2-.4 .4-.2 .3-.5zM541.6 307.2l-2.1 .5 -.7-1.7 .7-1.3 -.5-1.2 .3-.3 .2 .1 1.3-.8 1.4 .4 .5-.2 1.7 .8 -.8 1.9 2.3 .6 .2 1.5 -1.5 .2 -1.6-1.2 -1 .8zM544.1 299.7l-.1 .5 .1 0 -.2 0zM553 280.3l-.1 0 0 0zM552.9 275.9l-.9-.3 0-.2zM523.3 352.1l1.4 .8 -.1 1.6 -2.1-.8 -.2-.8zM520.1 356.7l-.3 .1 0-.1zM533 325.4l-.7-1.9 .9-1 .1-1.1 -1.2-1.4 .9-1.4 1.7 1.3 1.5-1 .4 .8 .3 1.5 -.8 .3 -1 1.7 .3 .7 -.7 1.3 .9 1 -.2 1.4 -1.4 .6 -.9-.5zM531 315l-1.1 2.2 .4 1.4 -.8 1 .6 1.2 -.8 .6 -1.6-.9 1.4-.9 -.6-2.3 -.6 .1 -.7-1.8 -.5-.3 -1.5 0 -.4-.9 -2.1-1.4 1.3-3 -.2-.8 .4 .8 2.6 0 .6-1.7 2.1 .4 .2 .5 -.9 1.6 2.3 .8 -.7 1.2 2.8 .9 -.5 1.1zM534.5 296.2l-.9 1 -.6-1.3 .3-.7 1.1 .2zM524 326.4l.1-.4 .1-.1zM524.8 325.4l.3 0 -.6 .3zM527.2 304.3l-.8 1.5 -1.9-.9 .3-1.4 1-.7 1.5 .7zM522.2 296.4l-.3 .3 -.2 0zM519.6 305.5l0 0 0 0zM526.7 306.8l.1 .5 -.3-.1zM526.4 321.8l-.4-.1 .5-.2zM523.8 342.7l0-.1 0 0zM525.1 341.7l-.1 0 0-.1zM525.2 340.6l0-.1 .1 0zM532.3 342.2l-1.8 .4 -.3-1.6 1.9-2.9 -.7-1.6 2.3-1.2 .9 1.7 -1.5 1 1.1 2.4 .4 .2 .2 1.2 -1.9 .7zM525.4 354.9l1.6-.8 1.3 1.8 -1 1 -.7 0zM526.6 351.5l1.3-.5 .2 .1 1.5 2 -2.4 .6zM536.1 318l0 .5 -.2-.7zM537.5 288.5l.5-.5 .8 .4 -.3 .1 -.2 .5 0 .4 -.3-.7zM534.7 308.2l.2-.3 .2 .5zM536.3 309.1l-.1 0 -.3-.2zM537.1 309l0 0 -.1 0zM546.6 279.5l-1.4 .4 -1.4-.6 .1-1.4 1.7-.9zM550.1 286.6l.3-.2 .2 0zM547.2 293.9l-.5 .4 -1.4-1.3 1.8-1 .6 .9zM551.4 253.6l-.1 0 -.4-.3zM552.8 247.5l-1.1-1.3 -.1-.7 1.9-1.2 .5 .8 .1 1.7 1.3 0 .5-.5 1.7 .2 .2 1.5 -1.7 .4 .3 2.4 -.9 .3 -1-.4 -.6-1.5 -1.1-1zM550.5 257.2l-.4 .1 0-.2zM550.2 253l.1 0 -.1 .1zM559.9 346.8l0-.1 0 0zM559.2 311.8l1.2-2.4 .8 .1 .9 .7 -1 1.6zM556.9 309.1l.4 .2 -.4-.1zM550.3 319l-1.2 .5 -1-.4 .3-2.1 1.6-1.4 2 .6 .3 .7 .6 .6 -.4 1.1 -.8 .9zM551.4 309l.2-.5 0 .3zM547.1 333.7l0 0 -.2-.6zM546.1 303l-.5 0 .2-.6zM549.6 305.1l-.3 .1 .2-.1zM545.6 301.5l.1 0 0 .1zM546.8 325.1l.1-.1 0 .1zM544.5 321.6l-.3-.1 .2-.5 0 .3zM546.6 332.2l-.3 0 .8-.5 -.4 .9zM550.2 336.2l-.3 0 0 0 .1-.1zM556.4 324.5l.4-.5 -.3 .9 .1 .3 -.7 .3 .3-1.2zM555.4 326.4l-.2-.3 .4-.2zM568.1 332.3l1.2-.6 .1 .2 -.1-.1zM560.5 318.2l0 .2 -.1-.1zM562.9 329.9l-.5 .1 .5-.2zM562.3 331.5l.1-.1 .1 0zM571.4 325.3l.4 .2 -.2 .1 -1-.4 .3-.4 -.1-.8zM557.2 259.8l.3-.1 .8 3 -1.1 .1 -1.5-1zM568.8 253.7l.1-.1 -.2 .5zM555.2 284.2l-.1 0 0 0zM560 248.5l1.1 .4 .5-.2 .1 .2 -.7 .3zM564.6 242.5l0 0 0 0zM568.5 257.9l1.1-.7 .9 .1 .6 1.8 -1.4 1.2 -1.3-.8zM561 258.6l.1 0 0 0zM565.2 260.3l-.2-.2 .1-.1zM572.6 247.2l0-.1 .1 0zM570 263.2l.1-.1 -.1 .3zM570.5 262.7l.2-.1 -.2 .1zM578.7 264.5l.4-.9 .6-.2 2.1 .6 -.2 1.7 1 .4 .9 1.8 -1.1 .5 -1.8-1.4 -1 .5 -1-.4zM583.1 261.7l-.7-.6 -.5-1.1 .7-1.9 .3-.1 2 1.2 -1.1 2.2 1.1 .4 .6 2 -2.1 0 -.6-.5zM576.9 257.1l-.1 0 0 0zM576.9 257l0 0 0 0zM569.5 253.1l.2 .1 -.5 .2zM569.9 251.5l.1 0 -.2 .5zM574.2 259.2l0 .1 -.1-.1zM525.1 271l.6 .4 .4 1.6 -.8 1.2 -1.1-.5 -.4-1.8zM524.7 267.9l0-.3 .3-.4 .3 .5zM525 262.9l0 .2 0 0zM523.6 253.2l-.9 .5 0-.3zM520.3 261.6l.1 0 0 .1zM520.5 262.5l-.3 .2 .2-.5zM520.3 246.4l0 0 0 0zM520.4 246.6l0 0 0 .1zM521 271.4l.7 .3 -.2 .1 -.9-.2 .2-.3 -.4-.8 .2-.1z"/>
<path fill="#fde725" d="M500.8 292.6l.6 .1 2.7-1.1 -.1-1.3 -3.4 .4zM501.8 296.5l-.3 .9 .6-.1 -2.6 1.8 .7 2.2 3.5-1.2 .1-.3 .4 .2 1.5-2.2 -.4-1.3 .6-.2 .6-.5 -1.2-2.4 -1.9 .8 -.9-.3 -1.5 .6 -1.7-1.1 -.6 .6 .8 3.3 2.1-.6 -.1-.2zM503.3 305.1l0-1.7 -1.2-.9 -1.7 0 -2.8-1.8 -.7 .1 -.6 1.6 3.9 1.3 .1 .6 2.5 1.1zM498.8 308.7l1 .2 .6 2 -2.9-.5 -.2 .7 1.6 2.3 .6 .4 1.7-.2 .1-2.2 -.2-.1 1.8 .1 .4-.5 -.3-1.7 1.1-.4 .7-1.1 -2.9-1.6 -.9 .7 -1-.6 -2.8 .2zM498.3 317.3l.3-.9 -1.6-1.8 -1.5 1 1 1.9zM500.6 317l-.8 .5 -.3 2 1.2 2.3 2-2.4 -.3-1.1zM507.4 247.9l1.7 .4 .3 1.1 -.2 .5 .1 .1 -.8 .6 .6 2.4 -1.2 .5 -1-1.3 -1 .1 .2 2.7 .6 .2 .5 1.3 1.5 1.2 .1 .3 2.1 .2 .9-.7 -.5-2 3.4-.6 -.3-.8 -3.2-1.1 .2-.8 .4 .4 1.5-1.1 -.5-1.5 -.4-.2 1 .2 .9-1.1 -2.5-1.2 -1.9-3.3 -1.9-.1 -.6 1.3 .5 .3 -1 1zM510.1 255.3l-.3-.2 .4 .1zM508.5 265.2l-.3 1.7 .3 1 1.2 .8 1.2-.2 .5-2.2 .6 .5 .7-.1 .4-.9 -.6-3.3 -1.7-.7 1.7-1.4 -.7-1 -.3 0 -2.6 1.1 1 1.4 .3 2.3z"/>
<path fill="#5ec962" d="M510.5 246.5l-.6 .3 3.7 2.4 1-.6 .2-1.1 -1.2-1.4 -1.3-2 -.8-.1 -1.6 .6zM509.2 269.9l-1.8-1.2 -.5 .3 -.7 3.5 .3 .2 2-1.1zM505 293.6l1-1.5 -2-.9 -2.9 1.8 .2 1.7 .9 .3zM501.4 304.3l-.5-1.3 -.6-.2 -1 .3 -2.8 1.7 4 .4zM497.4 309.7l.5 1.7 3-.5 -.3-2.3 -1.4 0z"/>
<path fill="#c8e020" d="M506.3 247.2l.7 2.6 1.4 1.1 -2.6 1.5 1.9 1.6 2.4-1.2 -.8-1.7 1.3-.2 .8-.9 -.8-1.5zM508.5 257.8l-.3 .8 -2 1 1.1 1.6 .7-.1 .8 1.7 2.5 .6 .2-.1 -.2-1 -1.7-1.8 1.6-.9 .2-2.3zM506.2 263.5l-1.3 1.9 .5 1.3 2.4 2.4 .6-.2 .4-1.7 -.2-.6 -.7-1.6 -.6-.7zM499.1 313.3l0 .9 -.6 0 -.5 1.8 .4 .7 1.8 1.4 .9 .1 1.8-2.4 -1.1-1.1 .1-.9 -1.3-1.5z"/>
<path fill="#90d743" d="M507.5 256.4l-1.7 .9 -.2 2.4 1-.1 2.2-1.2 .2-.7 -.2-.4zM508.8 262.6l-2.8 1.1 .4 .6 1.8 1.5 2.9-.6 -.2-2.2zM510.4 267.6l-1.4-.4 -1.5 .7 -.9 1.4 2 1.1 1.1-.3zM500.5 317.5l-.1-.4 -1.5-.3 -2.6 3.4 .2 .5 1 .1 2.4-1.7z"/>
<path fill="#20a486" d="M513 263.1l.3-.1 .1-2 -1.6-.4 -1.9 1.3 0 .8zM503.8 269.4l3.8-.1 .3-.2 .5-.8 -2.9-1.5 -2.8 1.2zM503.8 312.3l-.6-1.4 -2.8 .3 -1 1.8 2.2 1.2z"/>
<path fill="#35b779" d="M515.9 263l0-1.7 -1.7-1.1 -2.1 .8 -.4 2zM502.6 290l-.2 .4 .3 1.3 2.4 1.2 2-.6 .2-.2 -.1-.7 -3.6-1.7zM508.2 298.6l.3-1.8 -2.4-1 -1.2 .4 -.2 .3 .5 1.2 1.9 1.2zM499.3 297.1l-2.5-.4 -.8 1.6 3.2 1.7 1.5-.8z"/>
</g>
<g fill="none" stroke="#222" stroke-width="1">
<rect x="27.8" y="2.5" width="172.2" height="172"/>
<rect x="27.8" y="192.7" width="172.2" height="172"/>
<rect x="232.6" y="2.5" width="172.2" height="172"/>
<rect x="232.6" y="192.7" width="172.2" height="172"/>
<rect x="436.7" y="2.5" width="172.8" height="172"/>
<rect x="436.7" y="192.7" width="172.8" height="172"/>
</g>
<rect x="32" y="4.2" width="14.6" height="6.4" fill="#fc8d62"/>
<text x="50.9" y="10.8" font-size="8.8" textLength="18.4" lengthAdjust="spacingAndGlyphs">FMH</text>
<rect x="32" y="12.8" width="14.6" height="6.4" fill="#d5568c"/>
<text x="50.9" y="19.3" font-size="8.8" textLength="12.1" lengthAdjust="spacingAndGlyphs">NC</text>
<rect x="32" y="21.4" width="14.6" height="6.4" fill="#869bcf"/>
<text x="50.9" y="27.9" font-size="8.8" textLength="23.3" lengthAdjust="spacingAndGlyphs">Other</text>
<rect x="234.6" y="4.2" width="14.6" height="6.4" fill="#fc8d62"/>
<text x="253.1" y="10.8" font-size="8.8" textLength="19" lengthAdjust="spacingAndGlyphs">FMH</text>
<rect x="234.6" y="12.8" width="14.6" height="6.4" fill="#66c2a5"/>
<text x="253.1" y="19.3" font-size="8.8" textLength="13.2" lengthAdjust="spacingAndGlyphs">CM</text>
<rect x="234.6" y="21.4" width="14.6" height="6.4" fill="#869bcf"/>
<text x="253.1" y="27.9" font-size="8.8" textLength="23.6" lengthAdjust="spacingAndGlyphs">Other</text>
<rect x="440" y="4.2" width="14.6" height="6.4" fill="#aec7e8"/>
<text x="457.8" y="10.8" font-size="8.8" textLength="37" lengthAdjust="spacingAndGlyphs">Midbrain</text>
<rect x="440" y="12.8" width="14.6" height="6.4" fill="#1f77b4"/>
<text x="457.8" y="19.3" font-size="8.8" textLength="41.4" lengthAdjust="spacingAndGlyphs">Hindbrain</text>
<rect x="440" y="21.4" width="14.6" height="6.4" fill="#8c9bcc"/>
<text x="457.8" y="27.9" font-size="8.8" textLength="23.1" lengthAdjust="spacingAndGlyphs">Other</text>
<defs><linearGradient id="vg" x1="0" y1="1" x2="0" y2="0">
<stop offset="0" stop-color="#440154"/>
<stop offset=".1" stop-color="#482475"/>
<stop offset=".2" stop-color="#414487"/>
<stop offset=".3" stop-color="#355f8d"/>
<stop offset=".4" stop-color="#2a788e"/>
<stop offset=".5" stop-color="#21918c"/>
<stop offset=".6" stop-color="#22a884"/>
<stop offset=".7" stop-color="#44bf70"/>
<stop offset=".8" stop-color="#7ad151"/>
<stop offset=".9" stop-color="#bddf26"/>
<stop offset="1" stop-color="#fde725"/>
</linearGradient></defs>
<rect x="621.2" y="195" width="9" height="167.4" fill="url(#vg)" stroke="#222" stroke-width=".6"/>
<text x="633.7" y="199.1" font-size="8.8" textLength="11.2" lengthAdjust="spacingAndGlyphs">1.0</text>
<text x="633.7" y="232.5" font-size="8.8" textLength="13.4" lengthAdjust="spacingAndGlyphs">0.8</text>
<text x="633.7" y="265.9" font-size="8.8" textLength="13.4" lengthAdjust="spacingAndGlyphs">0.6</text>
<text x="633.7" y="299.3" font-size="8.8" textLength="13.4" lengthAdjust="spacingAndGlyphs">0.4</text>
<text x="633.7" y="332.7" font-size="8.8" textLength="13.4" lengthAdjust="spacingAndGlyphs">0.2</text>
<text x="633.7" y="366.1" font-size="8.8">0</text>
<g fill="none" stroke="#6e6e6e" stroke-width=".7">
<rect x="45.3" y="384" width="154.1" height="202"/>
<rect x="248.5" y="382" width="156.2" height="204"/>
<rect x="453.3" y="382.5" width="156.1" height="203.5"/>
</g>
<path d="M75.5 472.5 75.5 473.3 75.6 474.0 75.7 474.8 75.7 475.6 75.8 476.3 75.8 477.1 75.9 477.8 75.9 478.6 75.9 479.4 76.0 480.1 76.0 480.9 76.0 481.7 76.0 482.4 76.0 483.2 76.0 483.9 76.0 484.7 76.0 485.5 76.0 486.2 76.0 487.0 76.0 487.8 76.0 488.5 76.0 489.3 76.0 490.0 76.0 490.8 76.0 491.6 76.0 492.3 76.0 493.1 76.0 493.9 76.0 494.6 76.0 495.4 76.0 496.1 76.0 496.9 76.0 497.7 76.0 498.4 76.0 499.2 76.0 500.0 76.0 500.7 76.0 501.5 76.0 502.2 76.0 503.0 76.0 503.8 76.0 504.5 76.0 505.3 76.0 506.1 76.0 506.8 76.0 507.6 76.0 508.3 76.0 509.1 76.0 509.9 76.0 510.6 76.0 511.4 76.0 512.2 76.0 512.9 76.0 513.7 76.0 514.4 76.0 515.2 76.0 516.0 76.0 516.7 76.0 517.5 76.0 518.3 76.0 519.0 76.0 519.8 76.0 520.5 76.0 521.3 76.1 522.1 76.1 522.8 76.1 523.6 76.1 524.4 76.1 525.1 76.1 525.9 76.1 526.6 76.2 527.4 76.2 528.2 76.2 528.9 76.3 529.7 76.3 530.5 76.3 531.2 76.4 532.0 76.5 532.7 76.6 533.5 76.7 534.3 76.8 535.0 76.9 535.8 77.0 536.6 77.1 537.3 77.2 538.1 77.3 538.8 77.4 539.6 77.5 540.4 77.6 541.1 77.7 541.9 77.9 542.7 78.1 543.4 78.3 544.2 78.6 544.9 78.9 545.7 79.2 546.5 79.6 547.2 80.2 548.0 80.8 548.8 81.5 549.5 82.2 550.3 82.9 551.0 83.8 551.8 84.7 552.6 85.6 553.3 86.5 554.1 87.5 554.9 88.5 555.6 89.5 556.4 90.4 557.1 91.3 557.9 92.2 558.7 93.0 559.4 93.7 560.2 94.3 561.0 94.8 561.7 95.2 562.5 95.5 563.2 95.6 564.0 95.6 564.8 95.5 565.5 95.2 566.3 94.5 567.1 93.5 567.8 92.4 568.6 91.2 569.3 89.8 570.1 88.2 570.9 86.7 571.6 85.1 572.4 83.4 573.2 81.8 573.9 80.2 574.7 78.7 575.4 77.4 576.2 76.6 577.0 75.9 577.7 75.5 578.5 75.5 578.5 75.0 577.7 74.3 577.0 73.5 576.2 72.2 575.4 70.7 574.7 69.1 573.9 67.5 573.2 65.8 572.4 64.2 571.6 62.7 570.9 61.1 570.1 59.7 569.3 58.5 568.6 57.4 567.8 56.4 567.1 55.7 566.3 55.4 565.5 55.3 564.8 55.3 564.0 55.4 563.2 55.7 562.5 56.1 561.7 56.6 561.0 57.2 560.2 57.9 559.4 58.7 558.7 59.6 557.9 60.5 557.1 61.4 556.4 62.4 555.6 63.4 554.9 64.4 554.1 65.3 553.3 66.2 552.6 67.1 551.8 68.0 551.0 68.7 550.3 69.4 549.5 70.1 548.8 70.7 548.0 71.3 547.2 71.7 546.5 72.0 545.7 72.3 544.9 72.6 544.2 72.8 543.4 73.0 542.7 73.2 541.9 73.3 541.1 73.4 540.4 73.5 539.6 73.6 538.8 73.7 538.1 73.8 537.3 73.9 536.6 74.0 535.8 74.1 535.0 74.2 534.3 74.3 533.5 74.4 532.7 74.5 532.0 74.6 531.2 74.6 530.5 74.6 529.7 74.7 528.9 74.7 528.2 74.7 527.4 74.8 526.6 74.8 525.9 74.8 525.1 74.8 524.4 74.8 523.6 74.8 522.8 74.8 522.1 74.9 521.3 74.9 520.5 74.9 519.8 74.9 519.0 74.9 518.3 74.9 517.5 74.9 516.7 74.9 516.0 74.9 515.2 74.9 514.4 74.9 513.7 74.9 512.9 74.9 512.2 74.9 511.4 74.9 510.6 75.0 509.9 75.0 509.1 75.0 508.3 75.0 507.6 75.0 506.8 75.0 506.1 75.0 505.3 75.0 504.5 75.0 503.8 75.0 503.0 75.0 502.2 75.0 501.5 75.0 500.7 75.0 500.0 75.0 499.2 75.0 498.4 75.0 497.7 74.9 496.9 74.9 496.1 74.9 495.4 74.9 494.6 74.9 493.9 74.9 493.1 74.9 492.3 74.9 491.6 74.9 490.8 74.9 490.0 74.9 489.3 74.9 488.5 74.9 487.8 74.9 487.0 74.9 486.2 74.9 485.5 74.9 484.7 74.9 483.9 74.9 483.2 74.9 482.4 74.9 481.7 74.9 480.9 74.9 480.1 75.0 479.4 75.0 478.6 75.0 477.8 75.1 477.1 75.1 476.3 75.2 475.6 75.2 474.8 75.3 474.0 75.4 473.3 75.5 472.5z" fill="#d5568c" stroke="#333" stroke-width="1" stroke-linejoin="round"/>
<path d="M75.5 542.1V570.8" stroke="#3a3a3a" stroke-width=".7"/>
<path d="M75.5 556.0V567.6" stroke="#3a3a3a" stroke-width="2.4"/>
<circle cx="75.5" cy="562.8" r=".75" fill="#fff"/>
<path d="M122.5 420.0 122.6 421.1 122.6 422.3 122.6 423.4 122.6 424.5 122.7 425.6 122.7 426.8 122.7 427.9 122.7 429.0 122.8 430.2 122.8 431.3 122.8 432.4 122.8 433.6 122.8 434.7 122.8 435.8 122.8 436.9 122.8 438.1 122.8 439.2 122.8 440.3 122.8 441.5 122.8 442.6 122.8 443.7 122.8 444.8 122.8 446.0 122.8 447.1 122.8 448.2 122.8 449.4 122.8 450.5 122.8 451.6 122.8 452.8 122.9 453.9 122.9 455.0 122.9 456.1 122.9 457.3 122.9 458.4 122.9 459.5 122.9 460.7 122.9 461.8 122.9 462.9 122.9 464.1 122.9 465.2 122.9 466.3 122.9 467.4 122.9 468.6 122.9 469.7 122.9 470.8 122.9 472.0 122.9 473.1 122.9 474.2 122.9 475.3 122.9 476.5 122.9 477.6 122.9 478.7 122.9 479.9 122.9 481.0 122.9 482.1 122.9 483.3 122.9 484.4 122.9 485.5 122.9 486.6 122.9 487.8 122.9 488.9 122.9 490.0 122.9 491.2 122.9 492.3 122.9 493.4 122.9 494.5 122.9 495.7 122.9 496.8 122.9 497.9 122.9 499.1 123.0 500.2 123.0 501.3 123.0 502.5 123.0 503.6 123.0 504.7 123.0 505.8 123.0 507.0 123.0 508.1 123.0 509.2 123.0 510.4 123.0 511.5 123.0 512.6 123.0 513.7 123.0 514.9 123.0 516.0 123.0 517.1 123.0 518.3 123.1 519.4 123.1 520.5 123.1 521.7 123.1 522.8 123.1 523.9 123.1 525.0 123.1 526.2 123.1 527.3 123.1 528.4 123.1 529.6 123.2 530.7 123.2 531.8 123.2 532.9 123.3 534.1 123.4 535.2 123.5 536.3 123.7 537.5 123.9 538.6 124.0 539.7 124.2 540.9 124.5 542.0 124.7 543.1 125.0 544.2 125.2 545.4 125.5 546.5 125.8 547.6 126.2 548.8 126.9 549.9 128.1 551.0 129.4 552.2 131.1 553.3 133.0 554.4 134.7 555.5 136.4 556.7 138.1 557.8 139.8 558.9 141.4 560.1 142.8 561.2 144.0 562.3 144.9 563.4 145.5 564.6 145.2 565.7 144.0 566.8 141.2 568.0 138.4 569.1 135.5 570.2 132.7 571.4 130.0 572.5 127.4 573.6 125.1 574.7 123.4 575.9 122.5 577.0 122.5 577.0 121.7 575.9 120.0 574.7 117.7 573.6 115.1 572.5 112.4 571.4 109.6 570.2 106.7 569.1 103.9 568.0 101.1 566.8 99.9 565.7 99.6 564.6 100.2 563.4 101.1 562.3 102.3 561.2 103.7 560.1 105.3 558.9 107.0 557.8 108.7 556.7 110.4 555.5 112.1 554.4 114.0 553.3 115.7 552.2 117.0 551.0 118.2 549.9 118.9 548.8 119.3 547.6 119.6 546.5 119.9 545.4 120.1 544.2 120.4 543.1 120.6 542.0 120.9 540.9 121.1 539.7 121.2 538.6 121.4 537.5 121.6 536.3 121.7 535.2 121.8 534.1 121.9 532.9 121.9 531.8 121.9 530.7 122.0 529.6 122.0 528.4 122.0 527.3 122.0 526.2 122.0 525.0 122.0 523.9 122.0 522.8 122.0 521.7 122.0 520.5 122.0 519.4 122.1 518.3 122.1 517.1 122.1 516.0 122.1 514.9 122.1 513.7 122.1 512.6 122.1 511.5 122.1 510.4 122.1 509.2 122.1 508.1 122.1 507.0 122.1 505.8 122.1 504.7 122.1 503.6 122.1 502.5 122.1 501.3 122.1 500.2 122.2 499.1 122.2 497.9 122.2 496.8 122.2 495.7 122.2 494.5 122.2 493.4 122.2 492.3 122.2 491.2 122.2 490.0 122.2 488.9 122.2 487.8 122.2 486.6 122.2 485.5 122.2 484.4 122.2 483.3 122.2 482.1 122.2 481.0 122.2 479.9 122.2 478.7 122.2 477.6 122.2 476.5 122.2 475.3 122.2 474.2 122.2 473.1 122.2 472.0 122.2 470.8 122.2 469.7 122.2 468.6 122.2 467.4 122.2 466.3 122.2 465.2 122.2 464.1 122.2 462.9 122.2 461.8 122.2 460.7 122.2 459.5 122.2 458.4 122.2 457.3 122.2 456.1 122.2 455.0 122.2 453.9 122.3 452.8 122.3 451.6 122.3 450.5 122.3 449.4 122.3 448.2 122.3 447.1 122.3 446.0 122.3 444.8 122.3 443.7 122.3 442.6 122.3 441.5 122.3 440.3 122.3 439.2 122.3 438.1 122.3 436.9 122.3 435.8 122.3 434.7 122.3 433.6 122.3 432.4 122.3 431.3 122.3 430.2 122.4 429.0 122.4 427.9 122.4 426.8 122.4 425.6 122.5 424.5 122.5 423.4 122.5 422.3 122.5 421.1 122.5 420.0z" fill="#fc8d62" stroke="#333" stroke-width="1" stroke-linejoin="round"/>
<path d="M122.5 544.4V570.4" stroke="#3a3a3a" stroke-width=".7"/>
<path d="M122.5 556.9V568.3" stroke="#3a3a3a" stroke-width="2.4"/>
<circle cx="122.5" cy="563.4" r=".75" fill="#fff"/>
<path d="M169.6 506.9 169.6 507.4 169.6 507.9 169.6 508.4 169.6 509.0 169.7 509.5 169.7 510.0 169.7 510.5 169.7 511.0 169.7 511.5 169.8 512.1 169.8 512.6 169.8 513.1 169.8 513.6 169.9 514.1 169.9 514.6 169.9 515.2 169.9 515.7 170.0 516.2 170.0 516.7 170.0 517.2 170.1 517.7 170.1 518.3 170.1 518.8 170.1 519.3 170.2 519.8 170.2 520.3 170.2 520.8 170.3 521.4 170.3 521.9 170.3 522.4 170.4 522.9 170.4 523.4 170.4 523.9 170.5 524.5 170.5 525.0 170.5 525.5 170.6 526.0 170.6 526.5 170.6 527.0 170.7 527.6 170.7 528.1 170.7 528.6 170.8 529.1 170.8 529.6 170.9 530.1 170.9 530.7 170.9 531.2 171.0 531.7 171.0 532.2 171.1 532.7 171.1 533.2 171.1 533.8 171.2 534.3 171.2 534.8 171.3 535.3 171.3 535.8 171.4 536.3 171.5 536.9 171.6 537.4 171.8 537.9 172.0 538.4 172.3 538.9 172.6 539.4 172.9 540.0 173.2 540.5 173.5 541.0 173.7 541.5 173.9 542.0 174.1 542.5 174.4 543.1 174.6 543.6 174.8 544.1 174.9 544.6 175.1 545.1 175.3 545.6 175.5 546.2 175.6 546.7 175.7 547.2 175.8 547.7 175.9 548.2 176.0 548.7 176.1 549.3 176.2 549.8 176.4 550.3 176.6 550.8 176.8 551.3 177.1 551.8 177.6 552.4 178.0 552.9 178.6 553.4 179.1 553.9 179.8 554.4 180.6 554.9 181.5 555.5 182.3 556.0 183.1 556.5 183.8 557.0 184.6 557.5 185.3 558.0 185.9 558.6 186.6 559.1 187.1 559.6 187.6 560.1 188.1 560.6 188.6 561.1 188.9 561.7 189.2 562.2 189.4 562.7 189.5 563.2 189.6 563.7 189.6 564.2 189.4 564.8 189.1 565.3 188.7 565.8 188.2 566.3 187.5 566.8 186.6 567.3 185.7 567.9 184.7 568.4 183.8 568.9 182.8 569.4 181.7 569.9 180.6 570.4 179.6 571.0 178.6 571.5 177.6 572.0 176.6 572.5 175.6 573.0 174.7 573.5 173.9 574.1 173.2 574.6 172.5 575.1 171.9 575.6 171.3 576.1 170.8 576.6 170.4 577.2 170.1 577.7 169.8 578.2 169.6 578.7 169.6 578.7 169.3 578.2 169.0 577.7 168.7 577.2 168.3 576.6 167.8 576.1 167.2 575.6 166.6 575.1 165.9 574.6 165.2 574.1 164.4 573.5 163.5 573.0 162.5 572.5 161.5 572.0 160.5 571.5 159.5 571.0 158.5 570.4 157.4 569.9 156.3 569.4 155.3 568.9 154.4 568.4 153.4 567.9 152.5 567.3 151.6 566.8 150.9 566.3 150.4 565.8 150.0 565.3 149.7 564.8 149.5 564.2 149.5 563.7 149.6 563.2 149.7 562.7 149.9 562.2 150.2 561.7 150.5 561.1 151.0 560.6 151.5 560.1 152.0 559.6 152.5 559.1 153.2 558.6 153.8 558.0 154.5 557.5 155.3 557.0 156.0 556.5 156.8 556.0 157.6 555.5 158.5 554.9 159.3 554.4 160.0 553.9 160.5 553.4 161.1 552.9 161.5 552.4 162.0 551.8 162.3 551.3 162.5 550.8 162.7 550.3 162.9 549.8 163.0 549.3 163.1 548.7 163.2 548.2 163.3 547.7 163.4 547.2 163.5 546.7 163.6 546.2 163.8 545.6 164.0 545.1 164.2 544.6 164.3 544.1 164.5 543.6 164.7 543.1 165.0 542.5 165.2 542.0 165.4 541.5 165.6 541.0 165.9 540.5 166.2 540.0 166.5 539.4 166.8 538.9 167.1 538.4 167.3 537.9 167.5 537.4 167.6 536.9 167.7 536.3 167.8 535.8 167.8 535.3 167.9 534.8 167.9 534.3 168.0 533.8 168.0 533.2 168.0 532.7 168.1 532.2 168.1 531.7 168.2 531.2 168.2 530.7 168.2 530.1 168.3 529.6 168.3 529.1 168.4 528.6 168.4 528.1 168.4 527.6 168.5 527.0 168.5 526.5 168.5 526.0 168.6 525.5 168.6 525.0 168.6 524.5 168.7 523.9 168.7 523.4 168.7 522.9 168.8 522.4 168.8 521.9 168.8 521.4 168.9 520.8 168.9 520.3 168.9 519.8 169.0 519.3 169.0 518.8 169.0 518.3 169.0 517.7 169.1 517.2 169.1 516.7 169.1 516.2 169.2 515.7 169.2 515.2 169.2 514.6 169.2 514.1 169.3 513.6 169.3 513.1 169.3 512.6 169.3 512.1 169.4 511.5 169.4 511.0 169.4 510.5 169.4 510.0 169.4 509.5 169.5 509.0 169.5 508.4 169.5 507.9 169.5 507.4 169.6 506.9z" fill="#999999" stroke="#333" stroke-width="1" stroke-linejoin="round"/>
<path d="M169.6 538.0V570.8" stroke="#3a3a3a" stroke-width=".7"/>
<path d="M169.6 552.8V566.7" stroke="#3a3a3a" stroke-width="2.4"/>
<circle cx="169.6" cy="562.5" r=".75" fill="#fff"/>
<path d="M278.2 481.7 278.4 482.4 278.5 483.1 278.6 483.8 278.7 484.5 278.8 485.2 278.9 485.8 279.0 486.5 279.1 487.2 279.2 487.9 279.3 488.6 279.3 489.3 279.4 490.0 279.5 490.7 279.5 491.4 279.5 492.1 279.6 492.8 279.6 493.5 279.7 494.1 279.7 494.8 279.7 495.5 279.8 496.2 279.8 496.9 279.8 497.6 279.9 498.3 279.9 499.0 279.9 499.7 280.0 500.4 280.0 501.1 280.0 501.7 280.1 502.4 280.1 503.1 280.1 503.8 280.2 504.5 280.2 505.2 280.2 505.9 280.3 506.6 280.3 507.3 280.4 508.0 280.4 508.7 280.4 509.4 280.5 510.0 280.5 510.7 280.6 511.4 280.6 512.1 280.6 512.8 280.7 513.5 280.7 514.2 280.7 514.9 280.7 515.6 280.7 516.3 280.6 517.0 280.6 517.7 280.5 518.3 280.5 519.0 280.4 519.7 280.4 520.4 280.4 521.1 280.3 521.8 280.3 522.5 280.3 523.2 280.2 523.9 280.2 524.6 280.2 525.3 280.3 525.9 280.6 526.6 280.9 527.3 281.3 528.0 281.8 528.7 282.2 529.4 282.8 530.1 283.4 530.8 284.1 531.5 284.8 532.2 285.5 532.9 286.3 533.6 287.0 534.2 287.8 534.9 288.5 535.6 289.3 536.3 290.1 537.0 290.9 537.7 291.6 538.4 292.3 539.1 293.0 539.8 293.7 540.5 294.4 541.2 295.0 541.8 295.6 542.5 296.1 543.2 296.7 543.9 297.2 544.6 297.7 545.3 298.1 546.0 298.6 546.7 298.9 547.4 299.2 548.1 299.5 548.8 299.8 549.5 300.1 550.1 300.3 550.8 300.4 551.5 300.4 552.2 300.4 552.9 300.4 553.6 300.4 554.3 300.2 555.0 300.0 555.7 299.7 556.4 299.3 557.1 298.8 557.8 298.3 558.4 297.6 559.1 296.8 559.8 296.1 560.5 295.3 561.2 294.5 561.9 293.6 562.6 292.7 563.3 291.7 564.0 290.7 564.7 289.7 565.4 288.8 566.0 287.9 566.7 286.9 567.4 286.0 568.1 285.1 568.8 284.2 569.5 283.4 570.2 282.7 570.9 282.0 571.6 281.4 572.3 280.8 573.0 280.2 573.7 279.8 574.3 279.4 575.0 279.0 575.7 278.7 576.4 278.4 577.1 278.2 577.8 278.2 577.8 278.1 577.1 277.8 576.4 277.5 575.7 277.1 575.0 276.7 574.3 276.3 573.7 275.7 573.0 275.1 572.3 274.5 571.6 273.8 570.9 273.1 570.2 272.3 569.5 271.4 568.8 270.5 568.1 269.6 567.4 268.6 566.7 267.7 566.0 266.8 565.4 265.8 564.7 264.8 564.0 263.8 563.3 262.9 562.6 262.0 561.9 261.2 561.2 260.4 560.5 259.7 559.8 258.9 559.1 258.2 558.4 257.7 557.8 257.2 557.1 256.8 556.4 256.5 555.7 256.3 555.0 256.1 554.3 256.1 553.6 256.1 552.9 256.1 552.2 256.1 551.5 256.2 550.8 256.4 550.1 256.7 549.5 257.0 548.8 257.3 548.1 257.6 547.4 257.9 546.7 258.4 546.0 258.8 545.3 259.3 544.6 259.8 543.9 260.4 543.2 260.9 542.5 261.5 541.8 262.1 541.2 262.8 540.5 263.5 539.8 264.2 539.1 264.9 538.4 265.6 537.7 266.4 537.0 267.2 536.3 268.0 535.6 268.7 534.9 269.5 534.2 270.2 533.6 271.0 532.9 271.7 532.2 272.4 531.5 273.1 530.8 273.7 530.1 274.3 529.4 274.7 528.7 275.2 528.0 275.6 527.3 275.9 526.6 276.2 525.9 276.3 525.3 276.3 524.6 276.3 523.9 276.2 523.2 276.2 522.5 276.2 521.8 276.1 521.1 276.1 520.4 276.1 519.7 276.0 519.0 276.0 518.3 275.9 517.7 275.9 517.0 275.8 516.3 275.8 515.6 275.8 514.9 275.8 514.2 275.8 513.5 275.9 512.8 275.9 512.1 275.9 511.4 276.0 510.7 276.0 510.0 276.1 509.4 276.1 508.7 276.1 508.0 276.2 507.3 276.2 506.6 276.3 505.9 276.3 505.2 276.3 504.5 276.4 503.8 276.4 503.1 276.4 502.4 276.5 501.7 276.5 501.1 276.5 500.4 276.6 499.7 276.6 499.0 276.6 498.3 276.7 497.6 276.7 496.9 276.7 496.2 276.8 495.5 276.8 494.8 276.8 494.1 276.9 493.5 276.9 492.8 277.0 492.1 277.0 491.4 277.0 490.7 277.1 490.0 277.2 489.3 277.2 488.6 277.3 487.9 277.4 487.2 277.5 486.5 277.6 485.8 277.7 485.2 277.8 484.5 277.9 483.8 278.0 483.1 278.1 482.4 278.2 481.7z" fill="#66c2a5" stroke="#333" stroke-width="1" stroke-linejoin="round"/>
<path d="M278.2 525.2V566.4" stroke="#3a3a3a" stroke-width=".7"/>
<path d="M278.2 541.9V560.4" stroke="#3a3a3a" stroke-width="2.4"/>
<circle cx="278.2" cy="551.6" r=".75" fill="#fff"/>
<path d="M329.4 417.5 329.4 418.6 329.4 419.7 329.4 420.9 329.4 422.0 329.5 423.1 329.5 424.2 329.5 425.4 329.5 426.5 329.5 427.6 329.5 428.7 329.6 429.9 329.6 431.0 329.6 432.1 329.6 433.2 329.6 434.3 329.6 435.5 329.6 436.6 329.6 437.7 329.6 438.8 329.6 440.0 329.6 441.1 329.6 442.2 329.6 443.3 329.6 444.5 329.6 445.6 329.7 446.7 329.7 447.8 329.7 448.9 329.7 450.1 329.7 451.2 329.7 452.3 329.7 453.4 329.7 454.6 329.7 455.7 329.7 456.8 329.7 457.9 329.7 459.1 329.7 460.2 329.7 461.3 329.7 462.4 329.7 463.5 329.7 464.7 329.7 465.8 329.7 466.9 329.7 468.0 329.7 469.2 329.8 470.3 329.8 471.4 329.8 472.5 329.8 473.7 329.8 474.8 329.8 475.9 329.8 477.0 329.8 478.1 329.8 479.3 329.8 480.4 329.8 481.5 329.8 482.6 329.8 483.8 329.8 484.9 329.8 486.0 329.8 487.1 329.8 488.3 329.8 489.4 329.8 490.5 329.8 491.6 329.9 492.7 329.9 493.9 329.9 495.0 329.9 496.1 329.9 497.2 329.9 498.4 329.9 499.5 329.9 500.6 329.9 501.7 329.9 502.8 330.0 504.0 330.0 505.1 330.0 506.2 330.0 507.3 330.1 508.5 330.1 509.6 330.2 510.7 330.2 511.8 330.3 513.0 330.4 514.1 330.5 515.2 330.6 516.3 330.7 517.4 330.8 518.6 330.9 519.7 331.0 520.8 331.1 521.9 331.3 523.1 331.5 524.2 331.9 525.3 332.6 526.4 333.3 527.6 333.9 528.7 334.7 529.8 335.5 530.9 336.3 532.0 337.2 533.2 338.2 534.3 339.3 535.4 340.3 536.5 341.5 537.7 342.7 538.8 344.0 539.9 345.2 541.0 346.4 542.2 347.5 543.3 348.7 544.4 349.7 545.5 350.4 546.6 351.1 547.8 351.6 548.9 352.1 550.0 352.3 551.1 352.5 552.3 352.6 553.4 352.5 554.5 352.3 555.6 351.9 556.8 351.5 557.9 350.6 559.0 349.4 560.1 348.0 561.2 346.1 562.4 343.8 563.5 341.5 564.6 339.5 565.7 337.4 566.9 335.5 568.0 333.8 569.1 332.2 570.2 331.0 571.4 330.0 572.5 329.4 573.6 329.4 573.6 328.7 572.5 327.7 571.4 326.5 570.2 324.9 569.1 323.2 568.0 321.3 566.9 319.2 565.7 317.2 564.6 314.9 563.5 312.6 562.4 310.7 561.2 309.3 560.1 308.1 559.0 307.2 557.9 306.8 556.8 306.4 555.6 306.2 554.5 306.1 553.4 306.2 552.3 306.4 551.1 306.6 550.0 307.1 548.9 307.6 547.8 308.3 546.6 309.0 545.5 310.0 544.4 311.2 543.3 312.3 542.2 313.5 541.0 314.7 539.9 316.0 538.8 317.2 537.7 318.4 536.5 319.4 535.4 320.5 534.3 321.5 533.2 322.4 532.0 323.2 530.9 324.0 529.8 324.8 528.7 325.4 527.6 326.1 526.4 326.8 525.3 327.2 524.2 327.4 523.1 327.6 521.9 327.7 520.8 327.8 519.7 327.9 518.6 328.0 517.4 328.1 516.3 328.2 515.2 328.3 514.1 328.4 513.0 328.5 511.8 328.5 510.7 328.6 509.6 328.6 508.5 328.7 507.3 328.7 506.2 328.7 505.1 328.7 504.0 328.8 502.8 328.8 501.7 328.8 500.6 328.8 499.5 328.8 498.4 328.8 497.2 328.8 496.1 328.8 495.0 328.8 493.9 328.8 492.7 328.9 491.6 328.9 490.5 328.9 489.4 328.9 488.3 328.9 487.1 328.9 486.0 328.9 484.9 328.9 483.8 328.9 482.6 328.9 481.5 328.9 480.4 328.9 479.3 328.9 478.1 328.9 477.0 328.9 475.9 328.9 474.8 328.9 473.7 328.9 472.5 328.9 471.4 328.9 470.3 329.0 469.2 329.0 468.0 329.0 466.9 329.0 465.8 329.0 464.7 329.0 463.5 329.0 462.4 329.0 461.3 329.0 460.2 329.0 459.1 329.0 457.9 329.0 456.8 329.0 455.7 329.0 454.6 329.0 453.4 329.0 452.3 329.0 451.2 329.0 450.1 329.0 448.9 329.0 447.8 329.0 446.7 329.1 445.6 329.1 444.5 329.1 443.3 329.1 442.2 329.1 441.1 329.1 440.0 329.1 438.8 329.1 437.7 329.1 436.6 329.1 435.5 329.1 434.3 329.1 433.2 329.1 432.1 329.1 431.0 329.1 429.9 329.2 428.7 329.2 427.6 329.2 426.5 329.2 425.4 329.2 424.2 329.2 423.1 329.3 422.0 329.3 420.9 329.3 419.7 329.3 418.6 329.4 417.5z" fill="#fc8d62" stroke="#333" stroke-width="1" stroke-linejoin="round"/>
<path d="M329.4 521.3V566.2" stroke="#3a3a3a" stroke-width=".7"/>
<path d="M329.4 541.7V559.7" stroke="#3a3a3a" stroke-width="2.4"/>
<circle cx="329.4" cy="551.2" r=".75" fill="#fff"/>
<path d="M374.6 503.3 374.6 503.8 374.7 504.4 374.7 504.9 374.8 505.4 374.9 506.0 375.0 506.5 375.2 507.0 375.3 507.6 375.5 508.1 375.8 508.6 376.1 509.2 376.5 509.7 376.8 510.2 377.1 510.8 377.4 511.3 377.7 511.8 378.1 512.4 378.5 512.9 378.8 513.4 379.2 514.0 379.5 514.5 379.8 515.0 380.0 515.6 380.3 516.1 380.5 516.6 380.7 517.2 381.0 517.7 381.2 518.2 381.3 518.8 381.5 519.3 381.6 519.8 381.7 520.4 381.8 520.9 381.9 521.4 381.9 522.0 382.0 522.5 382.0 523.0 382.1 523.6 382.1 524.1 382.2 524.6 382.2 525.2 382.2 525.7 382.2 526.2 382.2 526.8 382.2 527.3 382.3 527.8 382.3 528.4 382.3 528.9 382.4 529.4 382.5 530.0 382.6 530.5 382.9 531.0 383.1 531.6 383.4 532.1 383.7 532.6 384.0 533.2 384.4 533.7 384.9 534.2 385.4 534.8 385.9 535.3 386.5 535.8 387.0 536.4 387.4 536.9 387.8 537.4 388.2 538.0 388.7 538.5 389.1 539.0 389.5 539.6 389.8 540.1 390.1 540.6 390.4 541.1 390.6 541.7 390.8 542.2 391.0 542.7 391.2 543.3 391.4 543.8 391.6 544.3 391.7 544.9 391.8 545.4 391.9 545.9 391.9 546.5 391.9 547.0 392.0 547.5 392.0 548.1 392.0 548.6 392.0 549.1 392.0 549.7 392.0 550.2 392.0 550.7 391.9 551.3 391.7 551.8 391.6 552.3 391.5 552.9 391.3 553.4 391.2 553.9 390.9 554.5 390.7 555.0 390.5 555.5 390.2 556.1 389.9 556.6 389.6 557.1 389.2 557.7 388.9 558.2 388.6 558.7 388.2 559.3 387.8 559.8 387.3 560.3 386.9 560.9 386.4 561.4 385.9 561.9 385.5 562.5 385.0 563.0 384.5 563.5 383.9 564.1 383.4 564.6 382.8 565.1 382.3 565.7 381.7 566.2 381.2 566.7 380.7 567.3 380.2 567.8 379.6 568.3 379.1 568.9 378.6 569.4 378.1 569.9 377.6 570.5 377.2 571.0 376.8 571.5 376.4 572.1 376.1 572.6 375.8 573.1 375.5 573.7 375.3 574.2 375.1 574.7 375.0 575.3 374.8 575.8 374.7 576.3 374.6 576.9 374.6 577.4 374.6 577.4 374.6 576.9 374.5 576.3 374.4 575.8 374.2 575.3 374.1 574.7 373.9 574.2 373.7 573.7 373.4 573.1 373.1 572.6 372.8 572.1 372.4 571.5 372.0 571.0 371.6 570.5 371.1 569.9 370.6 569.4 370.1 568.9 369.6 568.3 369.0 567.8 368.5 567.3 368.0 566.7 367.5 566.2 366.9 565.7 366.4 565.1 365.8 564.6 365.3 564.1 364.7 563.5 364.2 563.0 363.7 562.5 363.3 561.9 362.8 561.4 362.3 560.9 361.9 560.3 361.4 559.8 361.0 559.3 360.6 558.7 360.3 558.2 360.0 557.7 359.6 557.1 359.3 556.6 359.0 556.1 358.7 555.5 358.5 555.0 358.3 554.5 358.0 553.9 357.9 553.4 357.7 552.9 357.6 552.3 357.5 551.8 357.3 551.3 357.2 550.7 357.2 550.2 357.2 549.7 357.2 549.1 357.2 548.6 357.2 548.1 357.2 547.5 357.3 547.0 357.3 546.5 357.3 545.9 357.4 545.4 357.5 544.9 357.6 544.3 357.8 543.8 358.0 543.3 358.2 542.7 358.4 542.2 358.6 541.7 358.8 541.1 359.1 540.6 359.4 540.1 359.7 539.6 360.1 539.0 360.5 538.5 361.0 538.0 361.4 537.4 361.8 536.9 362.2 536.4 362.7 535.8 363.3 535.3 363.8 534.8 364.3 534.2 364.8 533.7 365.2 533.2 365.5 532.6 365.8 532.1 366.1 531.6 366.3 531.0 366.6 530.5 366.7 530.0 366.8 529.4 366.9 528.9 366.9 528.4 366.9 527.8 367.0 527.3 367.0 526.8 367.0 526.2 367.0 525.7 367.0 525.2 367.0 524.6 367.1 524.1 367.1 523.6 367.2 523.0 367.2 522.5 367.3 522.0 367.3 521.4 367.4 520.9 367.5 520.4 367.6 519.8 367.7 519.3 367.9 518.8 368.0 518.2 368.2 517.7 368.5 517.2 368.7 516.6 368.9 516.1 369.2 515.6 369.4 515.0 369.7 514.5 370.0 514.0 370.4 513.4 370.7 512.9 371.1 512.4 371.5 511.8 371.8 511.3 372.1 510.8 372.4 510.2 372.7 509.7 373.1 509.2 373.4 508.6 373.7 508.1 373.9 507.6 374.0 507.0 374.2 506.5 374.3 506.0 374.4 505.4 374.5 504.9 374.5 504.4 374.6 503.8 374.6 503.3z" fill="#999999" stroke="#333" stroke-width="1" stroke-linejoin="round"/>
<path d="M374.6 515.8V564.9" stroke="#3a3a3a" stroke-width=".7"/>
<path d="M374.6 536.2V556.1" stroke="#3a3a3a" stroke-width="2.4"/>
<circle cx="374.6" cy="548.0" r=".75" fill="#fff"/>
<path d="M483.4 438.8 483.4 439.7 483.5 440.7 483.5 441.7 483.6 442.6 483.6 443.6 483.7 444.6 483.7 445.6 483.7 446.5 483.8 447.5 483.8 448.5 483.8 449.5 483.8 450.4 483.8 451.4 483.8 452.4 483.8 453.4 483.8 454.3 483.8 455.3 483.8 456.3 483.8 457.3 483.8 458.2 483.8 459.2 483.8 460.2 483.8 461.2 483.8 462.1 483.8 463.1 483.8 464.1 483.8 465.1 483.8 466.0 483.8 467.0 483.8 468.0 483.8 469.0 483.8 469.9 483.9 470.9 483.9 471.9 483.9 472.9 483.9 473.8 483.9 474.8 483.9 475.8 483.9 476.8 483.9 477.7 483.9 478.7 483.9 479.7 483.9 480.7 483.9 481.6 483.9 482.6 483.9 483.6 483.9 484.5 484.0 485.5 484.0 486.5 484.0 487.5 484.0 488.4 484.0 489.4 484.0 490.4 484.0 491.4 484.0 492.3 484.0 493.3 484.0 494.3 484.1 495.3 484.1 496.2 484.2 497.2 484.3 498.2 484.4 499.2 484.5 500.1 484.6 501.1 484.8 502.1 485.1 503.1 485.4 504.0 485.8 505.0 486.1 506.0 486.5 507.0 487.0 507.9 487.4 508.9 488.0 509.9 488.5 510.9 488.9 511.8 489.4 512.8 489.8 513.8 490.2 514.8 490.6 515.7 491.0 516.7 491.3 517.7 491.5 518.7 491.8 519.6 492.0 520.6 492.2 521.6 492.5 522.6 492.8 523.5 493.2 524.5 493.7 525.5 494.3 526.5 495.0 527.4 495.9 528.4 497.1 529.4 498.5 530.3 499.7 531.3 500.7 532.3 501.6 533.3 502.4 534.2 503.2 535.2 503.9 536.2 504.4 537.2 504.9 538.1 505.4 539.1 505.8 540.1 506.1 541.1 506.4 542.0 506.6 543.0 506.9 544.0 506.9 545.0 506.9 545.9 506.8 546.9 506.6 547.9 506.4 548.9 506.0 549.8 505.5 550.8 504.8 551.8 504.1 552.8 503.3 553.7 502.5 554.7 501.5 555.7 500.5 556.7 499.4 557.6 498.4 558.6 497.2 559.6 496.1 560.6 494.9 561.5 493.7 562.5 492.5 563.5 491.2 564.5 490.0 565.4 488.8 566.4 487.8 567.4 486.8 568.4 485.9 569.3 485.1 570.3 484.5 571.3 484.1 572.3 483.7 573.2 483.4 574.2 483.4 574.2 483.1 573.2 482.7 572.3 482.3 571.3 481.7 570.3 480.9 569.3 480.0 568.4 479.0 567.4 478.0 566.4 476.8 565.4 475.6 564.5 474.3 563.5 473.1 562.5 471.9 561.5 470.7 560.6 469.6 559.6 468.4 558.6 467.4 557.6 466.3 556.7 465.3 555.7 464.3 554.7 463.5 553.7 462.7 552.8 462.0 551.8 461.3 550.8 460.8 549.8 460.4 548.9 460.2 547.9 460.0 546.9 459.9 545.9 459.9 545.0 459.9 544.0 460.2 543.0 460.4 542.0 460.7 541.1 461.0 540.1 461.4 539.1 461.9 538.1 462.4 537.2 462.9 536.2 463.6 535.2 464.4 534.2 465.2 533.3 466.1 532.3 467.1 531.3 468.3 530.3 469.7 529.4 470.9 528.4 471.8 527.4 472.5 526.5 473.1 525.5 473.6 524.5 474.0 523.5 474.3 522.6 474.6 521.6 474.8 520.6 475.0 519.6 475.3 518.7 475.5 517.7 475.8 516.7 476.2 515.7 476.6 514.8 477.0 513.8 477.4 512.8 477.9 511.8 478.3 510.9 478.8 509.9 479.4 508.9 479.8 507.9 480.3 507.0 480.7 506.0 481.0 505.0 481.4 504.0 481.7 503.1 482.0 502.1 482.2 501.1 482.3 500.1 482.4 499.2 482.5 498.2 482.6 497.2 482.7 496.2 482.7 495.3 482.8 494.3 482.8 493.3 482.8 492.3 482.8 491.4 482.8 490.4 482.8 489.4 482.8 488.4 482.8 487.5 482.8 486.5 482.8 485.5 482.9 484.5 482.9 483.6 482.9 482.6 482.9 481.6 482.9 480.7 482.9 479.7 482.9 478.7 482.9 477.7 482.9 476.8 482.9 475.8 482.9 474.8 482.9 473.8 482.9 472.9 482.9 471.9 482.9 470.9 483.0 469.9 483.0 469.0 483.0 468.0 483.0 467.0 483.0 466.0 483.0 465.1 483.0 464.1 483.0 463.1 483.0 462.1 483.0 461.2 483.0 460.2 483.0 459.2 483.0 458.2 483.0 457.3 483.0 456.3 483.0 455.3 483.0 454.3 483.0 453.4 483.0 452.4 483.0 451.4 483.0 450.4 483.0 449.5 483.0 448.5 483.0 447.5 483.1 446.5 483.1 445.6 483.1 444.6 483.2 443.6 483.2 442.6 483.3 441.7 483.3 440.7 483.4 439.7 483.4 438.8z" fill="#aec7e8" stroke="#333" stroke-width="1" stroke-linejoin="round"/>
<path d="M483.4 507.0V563.5" stroke="#3a3a3a" stroke-width=".7"/>
<path d="M483.4 532.5V553.3" stroke="#3a3a3a" stroke-width="2.4"/>
<circle cx="483.4" cy="543.3" r=".75" fill="#fff"/>
<path d="M532.4 418.0 532.4 419.1 532.5 420.3 532.5 421.4 532.5 422.5 532.5 423.7 532.6 424.8 532.6 425.9 532.6 427.1 532.6 428.2 532.7 429.3 532.7 430.5 532.7 431.6 532.7 432.7 532.7 433.9 532.8 435.0 532.8 436.2 532.8 437.3 532.8 438.4 532.8 439.6 532.8 440.7 532.8 441.8 532.9 443.0 532.9 444.1 532.9 445.2 532.9 446.4 532.9 447.5 532.9 448.6 532.9 449.8 532.9 450.9 532.9 452.0 533.0 453.2 533.0 454.3 533.0 455.4 533.0 456.6 533.0 457.7 533.0 458.8 533.0 460.0 533.1 461.1 533.1 462.2 533.1 463.4 533.1 464.5 533.2 465.7 533.2 466.8 533.2 467.9 533.2 469.1 533.3 470.2 533.3 471.3 533.3 472.5 533.4 473.6 533.4 474.7 533.4 475.9 533.5 477.0 533.5 478.1 533.5 479.3 533.6 480.4 533.6 481.5 533.6 482.7 533.7 483.8 533.7 484.9 533.8 486.1 533.8 487.2 533.9 488.3 533.9 489.5 534.0 490.6 534.0 491.7 534.1 492.9 534.1 494.0 534.2 495.1 534.2 496.3 534.3 497.4 534.3 498.6 534.4 499.7 534.5 500.8 534.5 502.0 534.6 503.1 534.7 504.2 534.8 505.4 534.9 506.5 535.1 507.6 535.4 508.8 535.8 509.9 536.2 511.0 536.9 512.2 537.9 513.3 538.9 514.4 539.9 515.6 540.8 516.7 541.7 517.8 542.6 519.0 543.5 520.1 544.5 521.2 545.4 522.4 546.3 523.5 547.2 524.6 548.0 525.8 548.8 526.9 549.6 528.0 550.3 529.2 550.9 530.3 551.6 531.5 552.2 532.6 552.6 533.7 552.9 534.9 553.2 536.0 553.4 537.1 553.4 538.3 553.4 539.4 553.4 540.5 553.3 541.7 553.1 542.8 552.8 543.9 552.4 545.1 551.9 546.2 551.4 547.3 550.8 548.5 550.1 549.6 549.4 550.7 548.6 551.9 547.8 553.0 547.0 554.1 546.2 555.3 545.3 556.4 544.4 557.5 543.5 558.7 542.5 559.8 541.6 561.0 540.5 562.1 539.5 563.2 538.6 564.4 537.7 565.5 536.8 566.6 536.0 567.8 535.3 568.9 534.6 570.0 534.0 571.2 533.4 572.3 533.0 573.4 532.7 574.6 532.4 575.7 532.4 575.7 532.1 574.6 531.8 573.4 531.4 572.3 530.8 571.2 530.2 570.0 529.5 568.9 528.8 567.8 528.0 566.6 527.1 565.5 526.2 564.4 525.3 563.2 524.3 562.1 523.2 561.0 522.3 559.8 521.3 558.7 520.4 557.5 519.5 556.4 518.6 555.3 517.8 554.1 517.0 553.0 516.2 551.9 515.4 550.7 514.7 549.6 514.0 548.5 513.4 547.3 512.9 546.2 512.4 545.1 512.0 543.9 511.7 542.8 511.5 541.7 511.4 540.5 511.4 539.4 511.4 538.3 511.4 537.1 511.6 536.0 511.9 534.9 512.2 533.7 512.6 532.6 513.2 531.5 513.9 530.3 514.5 529.2 515.2 528.0 516.0 526.9 516.8 525.8 517.6 524.6 518.5 523.5 519.4 522.4 520.3 521.2 521.3 520.1 522.2 519.0 523.1 517.8 524.0 516.7 524.9 515.6 525.9 514.4 526.9 513.3 527.9 512.2 528.6 511.0 529.0 509.9 529.4 508.8 529.7 507.6 529.9 506.5 530.0 505.4 530.1 504.2 530.2 503.1 530.3 502.0 530.3 500.8 530.4 499.7 530.5 498.6 530.5 497.4 530.6 496.3 530.6 495.1 530.7 494.0 530.7 492.9 530.8 491.7 530.8 490.6 530.9 489.5 530.9 488.3 531.0 487.2 531.0 486.1 531.1 484.9 531.1 483.8 531.2 482.7 531.2 481.5 531.2 480.4 531.3 479.3 531.3 478.1 531.3 477.0 531.4 475.9 531.4 474.7 531.4 473.6 531.5 472.5 531.5 471.3 531.5 470.2 531.6 469.1 531.6 467.9 531.6 466.8 531.6 465.7 531.7 464.5 531.7 463.4 531.7 462.2 531.7 461.1 531.8 460.0 531.8 458.8 531.8 457.7 531.8 456.6 531.8 455.4 531.8 454.3 531.8 453.2 531.9 452.0 531.9 450.9 531.9 449.8 531.9 448.6 531.9 447.5 531.9 446.4 531.9 445.2 531.9 444.1 531.9 443.0 532.0 441.8 532.0 440.7 532.0 439.6 532.0 438.4 532.0 437.3 532.0 436.2 532.0 435.0 532.1 433.9 532.1 432.7 532.1 431.6 532.1 430.5 532.1 429.3 532.2 428.2 532.2 427.1 532.2 425.9 532.2 424.8 532.3 423.7 532.3 422.5 532.3 421.4 532.3 420.3 532.4 419.1 532.4 418.0z" fill="#1f77b4" stroke="#333" stroke-width="1" stroke-linejoin="round"/>
<path d="M532.4 501.2V563.5" stroke="#3a3a3a" stroke-width=".7"/>
<path d="M532.4 527.9V550.6" stroke="#3a3a3a" stroke-width="2.4"/>
<circle cx="532.4" cy="540.4" r=".75" fill="#fff"/>
<path d="M579.5 479.5 579.5 480.2 579.6 480.9 579.6 481.6 579.6 482.3 579.7 483.0 579.8 483.7 579.9 484.5 579.9 485.2 580.0 485.9 580.1 486.6 580.2 487.3 580.3 488.0 580.4 488.7 580.6 489.4 580.7 490.1 580.9 490.8 581.1 491.5 581.3 492.2 581.5 493.0 581.7 493.7 582.0 494.4 582.3 495.1 582.6 495.8 582.9 496.5 583.3 497.2 583.6 497.9 584.0 498.6 584.4 499.3 584.8 500.0 585.3 500.7 585.7 501.4 586.2 502.2 586.7 502.9 587.1 503.6 587.6 504.3 588.1 505.0 588.6 505.7 589.1 506.4 589.7 507.1 590.2 507.8 590.7 508.5 591.2 509.2 591.7 509.9 592.2 510.6 592.7 511.4 593.2 512.1 593.7 512.8 594.2 513.5 594.6 514.2 595.0 514.9 595.5 515.6 595.9 516.3 596.3 517.0 596.7 517.7 597.0 518.4 597.3 519.1 597.6 519.9 597.9 520.6 598.1 521.3 598.3 522.0 598.5 522.7 598.7 523.4 598.9 524.1 599.0 524.8 599.1 525.5 599.1 526.2 599.2 526.9 599.3 527.6 599.3 528.3 599.3 529.1 599.3 529.8 599.3 530.5 599.2 531.2 599.1 531.9 598.9 532.6 598.7 533.3 598.4 534.0 598.2 534.7 597.9 535.4 597.7 536.1 597.4 536.8 597.0 537.5 596.7 538.3 596.3 539.0 595.9 539.7 595.5 540.4 595.1 541.1 594.7 541.8 594.3 542.5 594.0 543.2 593.6 543.9 593.3 544.6 593.0 545.3 592.6 546.0 592.3 546.8 591.9 547.5 591.6 548.2 591.2 548.9 590.9 549.6 590.5 550.3 590.1 551.0 589.8 551.7 589.4 552.4 589.1 553.1 588.7 553.8 588.3 554.5 588.0 555.2 587.6 556.0 587.3 556.7 586.9 557.4 586.5 558.1 586.2 558.8 585.8 559.5 585.5 560.2 585.1 560.9 584.8 561.6 584.5 562.3 584.2 563.0 583.9 563.7 583.5 564.4 583.2 565.2 582.9 565.9 582.6 566.6 582.4 567.3 582.1 568.0 581.8 568.7 581.6 569.4 581.3 570.1 581.1 570.8 580.9 571.5 580.6 572.2 580.4 572.9 580.2 573.7 580.1 574.4 579.9 575.1 579.8 575.8 579.7 576.5 579.6 577.2 579.5 577.9 579.5 577.9 579.4 577.2 579.3 576.5 579.2 575.8 579.1 575.1 578.9 574.4 578.8 573.7 578.6 572.9 578.4 572.2 578.1 571.5 577.9 570.8 577.7 570.1 577.4 569.4 577.2 568.7 576.9 568.0 576.6 567.3 576.4 566.6 576.1 565.9 575.8 565.2 575.5 564.4 575.1 563.7 574.8 563.0 574.5 562.3 574.2 561.6 573.9 560.9 573.5 560.2 573.2 559.5 572.8 558.8 572.5 558.1 572.1 557.4 571.7 556.7 571.4 556.0 571.0 555.2 570.7 554.5 570.3 553.8 569.9 553.1 569.6 552.4 569.2 551.7 568.9 551.0 568.5 550.3 568.1 549.6 567.8 548.9 567.4 548.2 567.1 547.5 566.7 546.8 566.4 546.0 566.0 545.3 565.7 544.6 565.4 543.9 565.0 543.2 564.7 542.5 564.3 541.8 563.9 541.1 563.5 540.4 563.1 539.7 562.7 539.0 562.3 538.3 562.0 537.5 561.6 536.8 561.3 536.1 561.1 535.4 560.8 534.7 560.6 534.0 560.3 533.3 560.1 532.6 559.9 531.9 559.8 531.2 559.7 530.5 559.7 529.8 559.7 529.1 559.7 528.3 559.7 527.6 559.8 526.9 559.9 526.2 559.9 525.5 560.0 524.8 560.1 524.1 560.3 523.4 560.5 522.7 560.7 522.0 560.9 521.3 561.1 520.6 561.4 519.9 561.7 519.1 562.0 518.4 562.3 517.7 562.7 517.0 563.1 516.3 563.5 515.6 564.0 514.9 564.4 514.2 564.8 513.5 565.3 512.8 565.8 512.1 566.3 511.4 566.8 510.6 567.3 509.9 567.8 509.2 568.3 508.5 568.8 507.8 569.3 507.1 569.9 506.4 570.4 505.7 570.9 505.0 571.4 504.3 571.9 503.6 572.3 502.9 572.8 502.2 573.3 501.4 573.7 500.7 574.2 500.0 574.6 499.3 575.0 498.6 575.4 497.9 575.7 497.2 576.1 496.5 576.4 495.8 576.7 495.1 577.0 494.4 577.3 493.7 577.5 493.0 577.7 492.2 577.9 491.5 578.1 490.8 578.3 490.1 578.4 489.4 578.6 488.7 578.7 488.0 578.8 487.3 578.9 486.6 579.0 485.9 579.1 485.2 579.1 484.5 579.2 483.7 579.3 483.0 579.4 482.3 579.4 481.6 579.4 480.9 579.5 480.2 579.5 479.5z" fill="#999999" stroke="#333" stroke-width="1" stroke-linejoin="round"/>
<path d="M579.5 495.7V561.6" stroke="#3a3a3a" stroke-width=".7"/>
<path d="M579.5 520.8V542.6" stroke="#3a3a3a" stroke-width="2.4"/>
<circle cx="579.5" cy="530.3" r=".75" fill="#fff"/>
<text x="41.7" y="430.7" font-size="8.8" text-anchor="end" textLength="25.9" lengthAdjust="spacingAndGlyphs">2,000</text>
<text x="41.7" y="466.4" font-size="8.8" text-anchor="end" textLength="25.9" lengthAdjust="spacingAndGlyphs">1,500</text>
<text x="41.7" y="502.1" font-size="8.8" text-anchor="end" textLength="25.9" lengthAdjust="spacingAndGlyphs">1,000</text>
<text x="41.7" y="537.8" font-size="8.8" text-anchor="end" textLength="17.6" lengthAdjust="spacingAndGlyphs">500</text>
<text x="41.7" y="573.8" font-size="8.8" text-anchor="end">0</text>
<text x="244.9" y="430.5" font-size="8.8" text-anchor="end" textLength="25.9" lengthAdjust="spacingAndGlyphs">1,200</text>
<text x="244.9" y="453.6" font-size="8.8" text-anchor="end" textLength="25.9" lengthAdjust="spacingAndGlyphs">1,000</text>
<text x="244.9" y="476.8" font-size="8.8" text-anchor="end" textLength="17.6" lengthAdjust="spacingAndGlyphs">800</text>
<text x="244.9" y="499.9" font-size="8.8" text-anchor="end" textLength="17.6" lengthAdjust="spacingAndGlyphs">600</text>
<text x="244.9" y="523.1" font-size="8.8" text-anchor="end" textLength="17.6" lengthAdjust="spacingAndGlyphs">400</text>
<text x="244.9" y="546.2" font-size="8.8" text-anchor="end" textLength="17.6" lengthAdjust="spacingAndGlyphs">200</text>
<text x="244.9" y="569.3" font-size="8.8" text-anchor="end">0</text>
<text x="449.7" y="440.5" font-size="8.8" text-anchor="end" textLength="17.6" lengthAdjust="spacingAndGlyphs">800</text>
<text x="449.7" y="471.9" font-size="8.8" text-anchor="end" textLength="17.6" lengthAdjust="spacingAndGlyphs">600</text>
<text x="449.7" y="503.3" font-size="8.8" text-anchor="end" textLength="17.6" lengthAdjust="spacingAndGlyphs">400</text>
<text x="449.7" y="534.7" font-size="8.8" text-anchor="end" textLength="17.6" lengthAdjust="spacingAndGlyphs">200</text>
<text x="449.7" y="566.1" font-size="8.8" text-anchor="end">0</text>
<text x="75.7" y="598.9" font-size="8.8" text-anchor="middle" textLength="12.3" lengthAdjust="spacingAndGlyphs">NC</text>
<text x="122.3" y="598.9" font-size="8.8" text-anchor="middle" textLength="18.5" lengthAdjust="spacingAndGlyphs">FMH</text>
<text x="169.3" y="598.9" font-size="8.8" text-anchor="middle" textLength="40.4" lengthAdjust="spacingAndGlyphs">Boundary</text>
<text x="278.3" y="598.9" font-size="8.8" text-anchor="middle" textLength="13.3" lengthAdjust="spacingAndGlyphs">CM</text>
<text x="329.3" y="598.9" font-size="8.8" text-anchor="middle" textLength="18.5" lengthAdjust="spacingAndGlyphs">FMH</text>
<text x="374.7" y="598.9" font-size="8.8" text-anchor="middle" textLength="40.4" lengthAdjust="spacingAndGlyphs">Boundary</text>
<text x="483.3" y="598.9" font-size="8.8" text-anchor="middle" textLength="35.9" lengthAdjust="spacingAndGlyphs">Midbrain</text>
<text x="532.3" y="598.9" font-size="8.8" text-anchor="middle" textLength="40.3" lengthAdjust="spacingAndGlyphs">Hindbrain</text>
<text x="579.3" y="598.9" font-size="8.8" text-anchor="middle" textLength="40.4" lengthAdjust="spacingAndGlyphs">Boundary</text>
<path d="M45.3 427.5h3.6M45.3 463.2h3.6M45.3 498.9h3.6M45.3 534.6h3.6M45.3 570.6h3.6M248.5 427.3h3.6M248.5 450.4h3.6M248.5 473.6h3.6M248.5 496.7h3.6M248.5 519.9h3.6M248.5 543h3.6M248.5 566.1h3.6M453.3 437.3h3.6M453.3 468.7h3.6M453.3 500.1h3.6M453.3 531.5h3.6M453.3 562.9h3.6M75.7 586v-3.2M122.3 586v-3.2M169.3 586v-3.2M278.3 586v-3.2M329.3 586v-3.2M374.7 586v-3.2M483.3 586v-3.2M532.3 586v-3.2M579.3 586v-3.2" stroke="#6e6e6e" stroke-width=".7" fill="none"/>
<path d="M77 397.2H170M123.7 405.5H170M278.7 393.7H374.7M326.7 402.3H374.7M483 393.7H579.3M531.3 402.3H579.3" stroke="#333" stroke-width=".7" fill="none"/>
<text x="123.5" y="394.2" font-size="9" text-anchor="middle" textLength="39.5" lengthAdjust="spacingAndGlyphs"><tspan font-style="italic">P</tspan> = 0.052</text>
<text x="147" y="407.9" font-size="12.5" text-anchor="middle" font-weight="bold">*</text>
<text x="326" y="395.4" font-size="12.5" text-anchor="middle" font-weight="bold">*</text>
<text x="350" y="404.3" font-size="12.5" text-anchor="middle" font-weight="bold">*</text>
<text x="531.4" y="395.4" font-size="12.5" text-anchor="middle" font-weight="bold" textLength="11.2" lengthAdjust="spacingAndGlyphs">**</text>
<text x="555.3" y="404.3" font-size="12.5" text-anchor="middle" font-weight="bold" textLength="11.2" lengthAdjust="spacingAndGlyphs">**</text>
<g id="sims">
<path fill="#fc8d62" d="M60.5 655.5l-1.6 2.9 -2.5 1.2 1.8 5.1 -.8 .4 -2.6 2.7 .9 2.4 -2.3 4.2 -.3 2.3 -.9 .8 -.8 2.9 -2.8 2.1 0 .4 -3.6 2.2 .5 2.2 .9 1.2 -2.4 2.3 -1.7 .5 .3 2.5 1.8 2 -2.4 1.8 -.3 .5 2.2 4.9 -.9 .3 -1.7 2.3 .8 1.9 -1 2.3 1.2 2.1 .4 .1 1.4 1.6 -2.5 3.8 -.5 .2 -1.7 3.5 .5 .8 4 1 .8 1 -.6 3.1 -1 .4 -1 5.9 -1.1 .5 -.5 5.6 .4 .7 3.9 0 .3-.1 3.4 1.5 -1.2 3.5 4.2 1.6 1 2 -.5 1.1 3 3.3 1 .2 2 3 .4 0 1.9 1.1 -.1 3.5 1.1 1.2 -.1 1.1 2.3 3.1 3 3.3 1.8-.6 1.9 .4 2.4 1.6 .9 2.3 2.2 1.3 1.7-1.2 3.7 .5 1.5-.6 5.8 .5 .2 3.2 2.4 1.4 3.5-1.4 3.8-.9 1.8 4.2 1.9 .2 1.4 3.2 2.1-.4 4.1 1.8 .5-.5 2.5 .5 2.9-1.1 .9 1.1 .4 2.2 2.8 1.8 1-.4 1.2-4.2 1.8-.1 1.5-1.5 2.9-.1 1.5 1 1.2-.1 2-2.1 3.5 1.4 2.1-3.8 2.2 1.2 .7 .8 1.6 .6 2.4-4.1 2 .3 .5 .6 .3 1.2 5.2 1.5 .3-.4 .1-1 1.4-1.8 2.6 .4 1.9-.3 1-1.8 3 .1 2.9-2.5 1.7-.7 .2-3.7 .9-.8 .2-1.8 2.5-2.5 -.1-1.1 .8-2.6 -.1-1.1 -.7-1 1.7-3.1 2.6-.1 1.1-1.1 -.4-4.3 3 .5 1.6-3.9 -.3-.6 1.4-2.5 1-.5 -1.9-5.9 .5-.4 -.2-3.2 -1-1.1 -.1-.4 .5-1 3.4-1.8 -1.8-3.3 -.5-.3 .1-3.9 -.8-1.3 1.2-5.3 -1.7-.3 -2.6-3.3 .1-.9 1-1 -.2-.9 .7-5.1 -3.4-.8 2.8-6.1 -.8-.3 -2.4 .1 -3.1-2.2 .1-1 2.4-2.3 -.3-2.9 -2.1-1.4 -.5-1.7 -3-.9 .3-1.2 -.5-3.9 -3.2 1.1 -.8-3.1 .3-1.9 -3.3-1.6 -.6-1.1 -.5-2.2 1.7-2.8 -.3-.8 -5.8-2.1 0-.4 3.8-2.7 -.8-3.2 .1-.5 -2.5-3.3 .8-2.8 -3-1.1 -1.8-.2 -.8 .6 -3.3-1.6 -.3-.5 .4-3.8 -.9-.6 -3.2 1.4 -2.2-3.1 -1.7-1.4 -2.1 0 -1.1-.5 -.6-1.7 -3.8 .6 -1.8-3.5 -1.3 .1 -1.1 .6 -.7 1 -1.3 .2 -1.6-.1 -2.8-1.7 -2.1 3 -.7 .4 -1.1-.6 -1-1.2 -3 .5 -1.5-.5 -.7-.6 -.9 .2 -1.4 1.5 -4.7-.5 -.9 .7 -4.2-.7 -1.4 1.3 -2.4-1.3 -1.6 .3 -2.8 2.9 -1.9-1.9 -3.3-1.5 -3 1.2 -.9-.2 -2.3 4.4 -2.6-1.8 -2.1 .7 -.7 0 -2 1.9 -1.1-.2 -3.1 1.8 .7 2.6 -1.8 3.8 -.8-.1 -1.2-.6 -3.8 .6 -1.8 1.3 -.2 1.2z"/>
<path fill="#d5568c" d="M113.5 637.3l-.9 .2 -1.4 1.5 -4.7-.5 -.4 .5 -.5 .2 -4.2-.7 -1.4 1.3 -.3-.1 -2.1-1.2 -1.6 .3 -2.8 3 .2 .6 2 1 1.1 1.3 1.2 .5 .7 2.3 1.5 1.1 -.1 4.4 -.2 .2 -.8 2.2 .7 2.7 4.2 1.8 3.8-1.2 1.6 1.1 -.1 1.9 .8 4.5 3 .4 1.8 2.7 2.1 0 1.6 .3 .5 3.7 -2.1 1.3 0 3.3 2.4 1.3 -.4 3 -.6 .2 -3.3 2.5 2.7 2.4 .9 .2 1.8 3.2 -2.2 2.5 .2 .9 .5 .9 .1 2.2 -3.5 1.3 -1.8-1.4 -.9-.3 -2.1 3.7 -2.1-1.1 -3.9 .9 .4 2.4 -4.2 2.2 .1 1 2.6 3.4 .4 .1 1 2.7 -.6 1.8 -1.9 1 -.5 2.8 1.2 1.4 3.3 1.8 -.4 2.5 -2.7 1.4 -.4 1.9 -1 1.1 -.4 1.6 .1 .4 2 1.6 2 0 2.3 3.3 -.1 .5 1.9 1.4 .6 3.8 -.2 .3 1.2 1.7 -1.4 2.7 1.3 1.8 1.1 .3 -.4 2.6 -2.8 2.1 3 2.8 .2 1.6 2 1.9 .7 0 3.5 1 .4 1.8 2.2 2 .3 2.4 .7 1.2 1.6 1.4 3.2-3.3 .5-.2 .9 5.3 1.6 .1 .4 .5 .7 3.1 -2.7 2.2 -.2 2.1 0 4.9 1.5 1 1.2-.1 2-2.1 3.5 1.4 2.1-3.8 2.2 1.2 .7 .8 1.6 .6 2.4-4.1 2 .3 .5 .6 .3 1.2 5.2 1.5 .3-.4 .1-1 1.4-1.8 2.6 .4 1.9-.3 1-1.8 2.4 0 .6 .1 2.9-2.5 1.7-.7 .2-3.7 .9-.8 .2-1.8 2.5-2.5 -.1-1.1 .8-2.6 -.1-1.1 -.7-1 1.7-3.1 2.6-.1 1.1-1.1 -.4-4.3 3 .5 1.6-3.9 -.3-.6 1.4-2.5 1-.5 -1.9-5.9 .5-.4 -.2-3.2 -1-1.1 -.1-.4 .5-1 3.4-1.8 -1.8-3.3 -.5-.3 .1-3.9 -.8-1.3 1.2-5.3 -1.7-.3 -2.6-3.3 .1-.9 1-1 -.2-.9 .7-5.1 -3.4-.8 0-.3 2.8-5.8 -.8-.3 -2.4 .1 -3.1-2.2 .1-1 2.4-2.3 -.3-2.9 -2.1-1.4 -.5-1.7 -3-.9 .3-1.2 -.5-3.9 -3.2 1.1 -.8-3.1 .3-1.9 -3.3-1.6 -.6-1.1 -.5-2.2 1.7-2.8 -.3-.8 -5.8-2.1 0-.4 3.8-2.7 -.8-3.2 .1-.5 -2.5-3.3 .8-2.8 -3-1.1 -1.8-.2 -.8 .6 -3.3-1.6 -.3-.5 .4-3.8 -.9-.6 -3.2 1.4 -2.2-3.1 -.3-.1 -1.4-1.3 -2.1 0 -1.1-.5 -.6-1.7 -3.8 .6 -1.8-3.5 -1.3 .1 -1.1 .6 -.7 1 -1.3 .2 -1.6-.1 -2.8-1.7 -2.1 3 -.7 .4 -1.1-.6 -1-1.2 -3 .5 -1.5-.5z"/>
<path fill="none" stroke="#fff" stroke-opacity=".7" stroke-width=".5" d="M123.7 698.6l-.2 0 -1.4 1.4 .5 1.5 -5.1 2.8 .2 1.6 1 .1 1.8 1.7 3.4-1.2 .2-3 -.9-.6 -4.5 3.1M123.7 698.6l4.5 2.7 -.8 1.9 -3.3 .3M123.7 698.6l3.7-2.6 1.4 .3 .4 3.6 -1 1.4M169.3 722.7l-1.7-4.4 2.6-.7 1.3-1.5 3.2 1.8 -.3 2.7 -.6 .2 -1-.1 -2.6-3.1M169.3 722.7l3.5-2M169.3 722.7l-.2 .9 -3 .3 -2.2 1.7 -3.3-4.3 .4-.2 4.3 .4 .8 2.4M143 765.9l-3-4.5 -1.8 1.4 0 .6 2 4.6 2.8-2.1 2.9-.4 .5-2 1-.6 .4 .1 5.2 2.1 -.6 1.5 -3.3 1 -2.8-1 -.4-1.1M156.7 718.5l3.1 1.8 -.2-3.9 -2.3-1.1 -.6 3.2 -1.9 .7 -.7-2.6 -4.4 .6 .1 3.7 1.8 .7 2.9-1.6 .3-.8M60.7 692.3l-.3-3.1 2.9-2.1 1.8 3.4 -3.7 2.2 -.7-.4 -2.1 .5 1.5 6.1 1.6-.5 1-2.8 -1.3-2.9M144.2 745.9l1.3 3.5 .5 .3 2.7-5.1 -1.1-.8 -.1 0 -3.3 2.1 -1.2-.2 -1-.8 -1.2-1.9 2.9-3.8 3.8 4.6M148.7 744.6l.5 .3 .6 3.5 3.9 .8 1.4-1.8 -2.1-3.5 -3.8 1M140 761.4l.4-.6 0-.6 1.8-1.8 3.3-.2 -1.1 3.7 -4-1.1M138.2 762.8l-.5-.2 -3.2-4.2 .4-.4 5.4 2.1 -2-4.7 -1.7-.4 -1.7 3M137.7 762.6l-4.9 .3 -.8-3.8 2.5-.7M122.1 700l-1.6-.5 -1.6-2.2 -3.6 1.2 2.1 3.3 3.1-2.3M123.5 698.6l-1.2-3.6 -3.6 0 -.4-.9 -4.8 3 1.6 1.4 .2 0M167.6 718.3l-.6-.2 -1.7 3.4M159.8 720.3l.4 1 -1.8 1.3 -3.9-2.6M49.5 710.4l-3.7-5.5 -.1-1.8 2.3 0 1.7 6.4 -.2 .9 0 .2 3.5 .5 1.4 2 0 .2 -2.4 3 0 0 -3.3-4.3 .5-1.1 .3-.3M49.7 709.5l3.1-4.3 -.8-1.2 2.4-2.7 2.8 1.5 -.3 3.4 -.7 .3 -3.4-1.3M45.1 708.7l-.6 .2 -2.4-1.4M45.1 708.7l.7-3.8M45.1 708.7l4.1 2.2M86.1 743.1l2 2.6 .7 .3 -.8 4.8 2.9 1 .5-.2 4.1 2.4 -1.7 3.1 -3-1.8 .1-3.5M86.1 743.1l-2.2 2.2 1.7 1.1 2.5-.7M86.1 743.1l.1-1.4 4-1.3 -2.2-4.1 -.8-.2 -2.5 .8 1.5 4.8 0 0M92.2 721.2l-1.7 2.2 -5.3 .6 1.6-4.7 5.2 1.6 .2 .2 0 .1 4.3 3.4 0 .1 -.9 1.7 -1.1 .5 -3.1-.4 -.6 .6 2 5.5 .1-.1 1.6-5.6M44.1 727.1l2.9 2 -.1 3.1 -.8 .7 -3.9 .4M46.9 732.2l2.7 1 3.1-1.9 2.4 .7 0 1.5 -3.7 3 2.1 1.8 3.9-1.2 -2.3-3.6M47 729.1l2-1.3 1.1 0 2.4 3.2 1.5-4.6 1.8 4.1 .1 .8 -.8 .7M65.2 702.4l-3.2 2.9 -2.9-5.2 .3-.9 .7-.3M65.2 702.4l-.1-.1 2.6-5.1 -4.8 2.2 2.2 2.9M65.2 702.4l2 .7 1.5-.1 1.2-3.9 -2-2 -.3-1.8 3.5-2 1.4 .3 1 3.9 -2.1 1.2 -1.5 .4M65.1 690.5l.7 .2 1 4.2 -4.1 .7M61.7 698.4l1.2 1M56.5 692.2l.3-4 -2.3-.4 -2.4 2.2 .9 1.5 3.5 .7 .3 .3 .7 .4 1.1-.1M56.8 688.2l1.1-.6 2.5 1.6M57.9 687.6l.7-3.6 .5 .1 4.3 2.4 -.1 .6M63.4 686.5l.5-.4 .5-4.5 -5.3 2.5M122.6 701.5l.6 1.4M127.4 696l-1.7-2.4 3.1-3.2 2.7 2 -.2 2.6 -2.5 1.3M140.5 780.3l1.8-3.4 -4-.2 -.8 .9 -.7-.8 -1.4-4.1 .5-.6 2.6-.8 1.3 1.8 -1.5 3.6M142.3 776.9l1.6-.9 1.3 1.5M135.9 772.1l-2.1-2 1.4-2.7 3.6 2.1 -.3 1.8M137.5 777.6l0 0 .8 1.5M139.8 773.1l2.8 .5 1.8-3.3 -4.2-2.3 -1.4 1.5M69.2 730.8l3.7 1.1 -.2-2.2 .3-1 4-1 1 1.9 1.4 .7 -.1 2.6 .3 .8 3.3 1.4 1.1-2.7 -2.9-2.8 -1.7 .7M69.2 730.8l-2.4 3.4 .3 .5 .1 3.3 1.7 1.4 1.9-1 1.1-1.5 -.8-2.7 -4 .5M69.2 730.8l-.9-2.7 .1 0 4.3 1.6M66.8 734.2l-1.6-1 -3.9 3.1 -1.3 0 -.1-2.7 4-2.8 1.3 2.4M64.5 738.9l-3.2-2.6M64.5 738.9l-.8 1.6 -4.3 .1 -.5-.1 -.3-1 -.2-1.9 -1-.5M64.5 738.9l2.7-.9M63.7 740.5l.3 1.9 3 2 -1.3 2.2 -2.6 0 -.9-2.6 .4-.7 1.4-.9M63.2 751.5l3.3-1.7 -.8-3.2M63.2 751.5l-.5 1.3 .4 .9 2.2 1.3 .5 1.6 -2.5 1.4 .2 2.6 3 .4 .4-.3 1.3-2.1 -2.4-2M63.2 751.5l-2-2.9 -3 2.1 -2.2-2.8 4.4-.7 .8 .7 0 .7M66.5 749.8l2.5 1.3 1.2-1.2 -1-6.5 .4-.3 -.7-3.7M69.2 743.4l-2.2 1M88 750.8l-2.5 .6 .1-5M88.8 746l1.7-.8 1.9 3 3-1.9 -.1-.6 -.4-.8 -3.9-.5 -.5 .8M93.8 757.1l.2 .4 5.9-.7 -.7-2.6 -.8-.8 -2.9 .6M90.8 755.3l-1.3 1.3 0 2.2 4 1.3 .3-.3 .2-2.3M146 749.7l1.7 1 2.1-2.3M145.5 749.4l-2.8 1.6 -1.4-.6 1.3-4.1 -4.2 3.3 1.6 1 1.3-.2M147.7 750.7l.4 2.7 5.1-1.1 1.4 2.3 -3.9 3.1 -2.7-4 .1-.3M142.7 751l.9 3.4 2.4 .3 -.5 3.5 0 0M143.6 754.4l-.6 .3 -.8 3.7M146 754.7l2-1M147.6 743.8l1-2.2 1.5-1.3 1.4-.1 2.4 1.3 -.9 2.4M151.5 740.2l.1-4 2.2-.7 .3-2.1 -1.8-2.1 -2.4 2 -.1 2.5 1.8 .4M153.9 741.5l1-.5 .8-2.2 -1.5-2.9 4.3-1 1.1 2.9 -3.9 1M153.7 749.2l.1 .6 4.6 2.6 .5-1 .1-2.4 -2.7-1.8 -1.2 .2M145.5 758.2l2.8 1.5 2.4-1.9 0-.1M110.3 767.6l-2.6 .5 -.9 2.2 1.2 2.1 -1.4 1.8 -.5 2.7 2.6 1.2 2.1-3.7 -.8-1.7 -2-.3M110.3 767.6l.2 .1 1.1 2.2 0 1.1 5.3 1.5 -4.2 2.7 -1.9-.8M110.3 767.6l-.3-3.9 1.6-1.2 1.9 1.4 -.2 2.6 .4 .4 2.7-1.9 -.2-1.3 -2.7 .2M110 763.7l-1 0 -1.7 3.8 .4 .6M138.2 763.4l-3.1 3.6 .1 .4M140.2 768l0 0M144.4 761.9l2 1.6M127.4 703.2l1.2 1.3 -1.8 4.5 -2.3-1.5 -.6-1M128.6 704.5l1.5 .4 2.5 2.8 -1 2 1.2 2.7 4.2-.4 -2.6-5 -1.8 .7M140.2 710.3l2.3 .9 1.2-.7 3.6 1.1 .4-2.3 -1.8-1.8 -2.2 3M140.2 710.3l-2.1 2 0 2.8 1.1 1.3 -.9 4.3 .3 .3 1.8 .9 1.4-.3 .2-3.5 -2.1-1.8 -.7 .1M140.2 710.3l-.2-1.2 -3-2.5 2.5-2.5 -3-2.6 -.8 .2 -.5 2 .1 2.6 1.7 .3M142.5 711.2l1.1 2.7 4.5 .5 .5 .4 .1 .9 -4.1 2.6 -.6-.6 -1-2.8 .6-1M169.1 723.6l.3 .5 3.1 1.6 1.3-4.9M136.8 729.3l-2.7-3.2 2.1-1.4 3.3 1.2 .8-.9 .1-3.1M136.8 729.3l-.7 1.9 -2.2 1.8 -3.3-.9 2.9-6.2 .6 .2M136.8 729.3l.9-.3 4.1 2.4 1.1-.1 -1-3.2 -3.3 0 -.9 .9M136.2 724.7l2.4-3.7M156.8 732l2.1 .7 -.4 2.2M156.8 732l-2.7 1.4M156.8 732l-.7-2.9 2.3-.4 .5-2.6 -1.4-1.8 -1.8 .8 -.1 3.6 .5 .4M158.9 732.7l1.9-1 2.1 2.8 -1.9 3.9 -1.4-.6M148 726.1l.3-4.2 -3.8-.6 -.6 .4 .3 4.3 1.8 1.1 .3 0 1.7-1 2.9 1.5 2.5-3 -1.8-3M144.2 726l-1.7 .5 -2.2-1.5M148.3 721.9l1.5-1M143.9 721.7l-2.1-.1M144.5 721.3l.1-3M133.5 725.9l-.5-.4 -.2-2.9 5-2 .5 .1M133 725.5l-4 .5 -2.2-.9 -.4-2.4 -.5-.6 -1.6 .3 -3.8 2.1 -.9-3.9 4.7 1.8M129 726l.7 6.2 .9-.1M181.7 720.4l-1.9-.1 -2.8 1.6 -2.6-1.3M172 712.6l-.5 3.5M172 712.6l1.3 .5 2.2 4.1 2.1-.8 2.2 3.9M172 712.6l0-.1 -.3 0 -5.2 3.1 -.2 1.8 .7 .7M166.3 717.4l-1.7 .2 -3.6 3.5M164.6 717.6l-3.1-2.4 -1.9 1.2M166.5 715.6l-.9-2.8 1.8-2.1 4.3 1.8M44.2 713.6l2.6 .2 .3 2 -2 3.2 -3.5-1.6M56.8 692.5l-4 4 4.2 .5 .5-4.1M59.1 700.1l-1.9 2.7M62 705.3l-.1 .2 -3.4 1.1 -1.6-.4M61.9 705.5l1.8 2.6 2.5-.6 1-4.4M53 691.5l-1.6 4.4 1.3 .6 .1 0M48 703.1l1.6-.4 2.4 1.3M45.7 703.1l-.3-.2 -1.4 .2M45.4 702.9l.2-4.1 4.1 .6 .8-3.4 -2.8-1 -2.3 1.1 .2 2.7M79.3 732.9l-4.4 1.3 -1.5-2 4.6-2.6M86.8 719.3l-.4-1.7 -1.4-.5 -3.4 3.3 -.5-.2 -2.6 4.1 4.9 1.2 1.4-1 .1-.3 -3.3-3.8M90.5 723.4l.9 3.1M85.2 724l-.3 .2M110.2 720.9l-3.9 0 -.4 2.5 2.9 2.1 1.2-.1 .2-4.5 .9-.7 .4-.1 3.3 3.6 2.3-3.4 -1.6-2.7 -2.5 0 -1.5 2.5M96.5 724.7l.3 0 4.4-1.6 -2.1-2.7 -1.3 .3 -1.3 3.9M111.1 720.2l-3.3-3.2 -.1-.6 -4.9 2.3 .2 .4 3.3 1.7 1.5-3.8M79.6 733.7l-2 4.7 -1-.1 -1.4-1.7 -.3-2.4M77.6 738.4l1.1 .9 4-1.6 .9-1 -.7-1.6M78.7 739.3l1 3.5 1.2 .4 2.5-1.6 -.7-3.9M95.6 726.4l2 3.1 -2.2 3.5 .2 .2 4.1-.3 1.9-3.2 -.2-.3 -3.8 .1M82.5 727.9l-1.4 1.7M82.5 727.9l3.6 2.9 -1.6 1.5 2.4 2.1 1.1-3.8 -.1-.1 -1.8 .3M82.5 727.9l.9-2.4M46.1 732.9l.2 3.9 3.7 .4 1-.8 -1.4-3.2M52.5 731l.2 .3M77.6 686.5l1.2 2.2 .7 .2 .8 3.3 3.8 .6 0-.1 -1.9-4.5 -.4 0 -2.3 .7M77.6 686.5l3.9-3.7 .3 5.4M77.6 686.5l-2.3-2 5.8-3.4 -.1-1.1 -5.7 1 -.5 3.3 .5 .2M68.7 703l1.7 1.2 2.4-1.8 -1.4-3.7M65.8 690.7l1-.5 4.1 2.9 .2 .2M66.8 694.9l.8 .4M67.7 697.2l.2-.1M54.5 687.8l-1.2-3.4 -2.9 0 -.3 2.5 1.9 3 .1 .1M52 689.9l-3.8 1.4 -1.2-2.5 -.6-.3M120.4 754.4l-4.5-1.2 -.9 4.9 3.4 1.1 2-4.8 .4-.3 -.9-3.1 4.5-.8 -1.7 3.9 -1.9 0M107 758.5l1.2-1.2 4-1 2 1.8 -2.5 3.4 -4.7-3 -1.5 .4 -1-.7 .5-3.7 2.7-2.8 .2 .1 .3 4 0 1.5M109.9 745.1l-2-1.1 -1.9 1.7 -3.2-1.7 -.3-.4 1.1-2.8 -2.8-2.6 -2.5 2.6 .1 1.4 2.2 1.6 1.9-.2M109.9 745.1l1.2 1.8 -4.2 1.2 -.2-.2 -4.1 1.4 .6 1.9 4.3 .3 -.6-3.4M109.9 745.1l1.4-2.7 -1.3-1.7 -1.5 .5 -.6 2.8M126.4 722.7l5.2-1.9 1.2 1.8M124.4 726.8l1.8-1 .6-.7M124.4 726.8l-4.2-1 -.1-.1 .4-1.2M124.4 726.8l-.6 2.6 .3 1 3.1 .6 -1-5.2M120.2 725.8l.1 2.8 -3.7 .4 .7-3.2 2.8-.1M120.3 728.6l.1 .3 3.4 .5M116.3 731l0-1.3 .3-.7M116.3 731l3.3 1 .8-3.1M116.3 731l-1.7 .9 1.9 3.2 3.8-.2 .2-1.7 2.4-1 1.7 1.2 1.4 2.3 -4.1 1.5 -1.1-.8 -.5-1.5M121.6 717.9l1.8-.9 .5 .1 .5-1.4 3.2-3.7 -.4-1.5 -1.6 .8 -1.2 4.4M121.6 717.9l-3.6-2 1.5-2.5 1.8-.4 .4-1.4 -.2-.6 -.7-.9 -5.2 .1 -.1 .4 1.9 1.8 2.1 1M121.6 717.9l-2.1 2.5 .1 .2M119.5 720.4l-2.4-.1M123.4 717l-2.1-4M125.9 722.1l-.4-2.5 -1.4-2.3 -.2-.2M114.8 724.2l2.5 1.6M114.8 724.2l-2.6 2 0 .1 4.1 3.4M114.8 724.2l0-.5M111.6 702.8l2.2-.7 3.2 .5 .5 1.7M111.6 702.8l3.7 4.8 .1 .1 2.3-1.8M111.6 702.8l-.4-.1 -2.5 2.3 -.1 2.3 .6 .9 6.1-.6M116.3 716.4l1.7-.5M116.3 716.4l1.1-4M116.3 716.4l-.2 .2 -1.9-4.8 1.3-1.2M120.5 707.7l.3 2.4M58.6 684l-.2-.4 2.8-4.2 3.5 1.5 -.3 .7M80 673.8l3.2 .3 0 3.6 -.2 .5 -1.9 1.2 -3-3.1 0-.1 1.9-2.4 -.4-3.7 4.2 .1 0-4.8 -.1-.1 -.6-.1 -2.9-4.5 .3-.9 .9-.7 1.4 1 2.1 3 -1.2 2.2M86.8 696.1l1.8-.3 .2-1.5 -3.1-2.6 1.1-1.9 -2.2-2.3 1.3-2.4 -1.5-1.9 2.7-3.5 .3 0 .8 .9 -1.8 4.4 -.5 .1M86.8 696.1l-2.6-1.6 -.1-1.7M86.8 696.1l-1.3 2.6 -.7 .7 -.6 2.8 -1 .8 -2.9-5.8 .6-.7 .4 0 3.5 2.9M84.2 694.5l-2.9 2M84.6 687.5l-2.4 .7M81.5 682.8l.2-.6 2.7 1M89.8 685.5l1.6-1.9 .3-1.1 -3.5-1.9M89.8 685.5l-3.4-.5M89.8 685.5l.2 1 5 2.2 0 0 -.7-2.2 -2.9-2.9M80.5 659.8l-3.6-1.1 -3.3 3.2 0 0 0 .2 -1.2 1.6 .5 3.5 1 .8 4.2-2.2 -2.9-3 -1.6-.7M122.3 695l2.2-2.2 1.2 .8M118.7 695l.2 2.3M111.6 771l-1.6 1.7M135.4 772.7l-2.8 1.7 .7 .9 3.5 1.5M137.5 777.6l-4.3 1.8 -.5 .5 0 1.6M53.5 738.3l-.3 1.7 -4.1 1.4 2.5 2.3 2.5-1.1 -.2-1.5 -.7-1.1M51 736.4l.4 .1M58.4 737.6l1.6-1.3M72.9 766.3l-2.7 2.9M72.9 766.3l2.6 1.1 .2 1.2 -3.1 2.2M72.9 766.3l-.5-2.5 -2.8 .3 -.9 1.2 -2.8-1.4 .6-2.9M76.6 738.3l-1.8 1.7 -4-1.6M58.6 739.5l-4.7 1.6M56.3 744.3l-2.2-1.7M56.3 744.3l1.8-1 .8-2.8M56.3 744.3l-1.1 3.1 -2.6 1.2M95.7 742.8l-.8 2.1M95.7 742.8l-2.4-3.2 -.5 0 -2.2 .9 .4 3.9M95.7 742.8l2.7-.6M93.3 739.6l1.5-.9 .5-5.6 -2.4-.6M89.5 756.6l-2.8-.8 -.4 2.1 2.2 1.9 1-1M86.7 755.8l-2-2.2 .6-2.1 .2-.1M80.9 743.2l1.9 2.3 1.1-.2M79.7 742.8l-3.3 3 -3.2-2.3 1.6-3.5M95.6 749.8l2.7 2.1 1.3-2.7 -.9-1.8 1.9-3.6 0 0M95.6 749.8l.4-2.8 2.7 .4M95.6 749.8l-3.6 1 -.6 .8M92 750.8l.4-2.6M129 749.7l-1.2-3.3 4-.2 -.2 3.4 -2.6 .1 -1.4 1.1 -.1 1.8 3.6 2.1 1.1-1 -.4-3.9 -.2-.2M127.1 745.7l.7 .7M127.1 745.7l.1-2.5 -1.8-.4 -2.7-2.6 0-.4 3.5-.8 1.9 3.5 -.9 .7M127.1 745.7l-2.2 1.7 -2.1-2.3 2.6-2.3M143 745.7l-.4 .6M142 744.9l-3.7 2.7 -1.8-3.8 -1.9 .3 .8 5.3 1.1 .5 1.5-.5 .3-1.8M140.8 743l-2.5-.6 -1.8 1.4M143.7 739.2l0 0 -.3-.3 -.8-3.9 2.2-3 2.1 4.6 -.6 .8 -2.6 1.8M131.8 746.2l1-2 1.2-.2 .6 .1M148.1 736.6l2 3.7M148.1 736.6l1.7-.8M148.1 736.6l-1.2 0M148.6 741.6l-2.3-4.2M154.9 741l2.4 1.4 4.6-2.6 -.9-1.4M140.4 760.2l-.1-.1M143 754.7l-3.3-.3 .3-3.8M139.7 754.4l-1.4 1M131.1 754.7l-.8 3.2 .8 .7 .9 .5M155.6 699.6l1.9 3.1 -2.2 1.1 -1.9-2.3 2.2-1.9 .1-.3 5.2-.7 .4 .3 -.6 2.3 -2.8 1.8 -.4-.3M161.3 698.9l2.7-.1 .7-3.6 -3.6-1.1 -.7 2.9 .5 1.6M145.9 707l-.4-1.1 -3.9 .8 -1.6 2.4M145.9 707l0 .5M145.9 707l6 .3 .1-1.2 .3-.2 2.2-.3 4.4 1.2 .1 .1 -3.6 3.2 -3.5-2 0-.8M155.3 703.8l-.8 1.8M153.4 701.5l-.8 .4 -3.4-1.6 -1.9 3.6 -1.4 .6 -.4 1.4M152.6 701.9l-.3 4M155.9 714l1.4 1.3M155.9 714l-1.8 2.6M155.9 714l0-.3 3.4-1.7 2.7 .8 -.5 2.4M182.5 743.5l-4-2 -.5-1.3 -2.5-1.2 -2.3 1.2 2 3.9 -5.3 .5 .1-.5 2.7-4 .5 .1M178.5 741.5l-2.2 3 -.8 0 -.3-.4M172.9 748.5l2.6-4M172.9 748.5l-.9 .1 -2.8-1.6 0 0 .7-2.4M172.9 748.5l1.7 1 2.1 .4M176.3 744.5l.5 .4 0 5M170.4 738.7l1.1 .3 1-3.9 3.9 .6 -.9 3.3M170.4 738.7l-1.9-4.3 3-1.1 1 1.8M170.4 738.7l-3.8 1.1 -.8-.3 -3.2 .8 -.1 2.7 2.1 2.6 1.1 0 1.4-4.6 -.5-1.2M171.5 739l1.2 1.1M176 730l-.6 .9 1.5 4.2 .3 0 3.6-2.7M176 730l4.8 1.9M176 730l.3-2.5 4.3 1.8 1.5-3.6 -5.3 .6 -.5 .6 0 .6M175.4 730.9l-2.9 .7 -1.8-2.6 -2.8-.2 -1.4 .8 5.3 3.1 .7-1.1M176.4 735.7l.5-.6M177.2 735.1l3.5 2.2 -.8 1.4 3.2 4.4M178 740.2l1.9-1.5M147.7 709.3l3.3-.1 -.2 3.7 -2.2 1.9M147.3 711.6l.8 2.8M148.7 715.7l1 1.5M143 714.9l-3.1 1.4M144 717.7l-2 .4M138.1 712.3l-1.1-.3M138.1 715.1l-3.4 1 .1 2.5 -3.1 1.7 -.5-1.1 2.4-3.7 1.1 .6M129.2 699.9l2.4 1 .1 2.2 -1.6 1.8M147.3 703.9l4.7 2.2M149.2 700.3l0 0M149.2 700.3l-1.6-1.5 -2.9 1.4 -1.3-3.3 .3-.2 3.2 0 .7 2.1M149.2 700.3l3.5-4.1 3 3 1.9-3.9 -.3-1.3 -4-.5 -.8 1.5 .2 1.2M163.7 728.3l2.7 1.3 .3 4 -3 .9 -.8 0M163.7 728.3l-2.6 2.6 -.3 .8M163.7 728.3l-.1-.4 -4.7-1.8M161.1 730.9l-2.7-2.2M149.1 730.3l-1.7 1.3 -2.6 .3 0 0 1.2-4.8M149.1 730.3l-2.8-3.2M149.1 730.3l2.2-1.1 -.4-1.6M147.4 731.6l2.5 1.7M144.8 731.9l0 .1M144.8 731.9l-1.9-.6M142.5 726.5l-.6 1.6M139.5 725.9l-.9 2.2M153.4 724.6l2.3 .5M151.3 729.2l.7 .7 .3 1.4M152 729.9l3.6-1.2M127.2 731l.2 .1 2.3 1.1 0 0M127.4 731.1l-2.8 2.3M137.8 720.6l-3-2M131.6 720.8l.1-.5M127.6 712l1 3 -4.5 2.3M177 721.9l-.2 4.4M181.2 731l-.6-1.7M173.3 713.1l3.6 .7 1.6-2.3M177.6 716.4l.1-.3 -.8-2.3M175.5 717.2l-.8 .7M163.6 727.9l.3-2.3M158.4 722.6l-.9 1.7M160.2 721.3l.4 0M168.6 684.5l1.3-.3M168.6 684.5l-.5 4 4-.5 -.6 3.3 -2.9-.8 -.7-1.7 .2-.3M168.6 684.5l-1.8-.9 -2.2 .9 -1.7-.8 -.3-3.4 3.9-.1 .3 3.4M59.5 664.8l2.9 .3 3.3-2.2 .3 .1 .9 .9 -2.4 6.2 -.7 .2 -1.4-5.2M59.5 664.8l2-4 1.8 .2 2.4 1.9M59.5 664.8l-.5 .2 1 4.6 3.7 .8 .1-.1M58.9 658.5l2.6 2.3M63.3 661l.4-4.2 -.6-.7 -1.7-1.2M59.4 699.2l-.9-.5 -4.2 1.4 .1 1.2M58.5 706.6l1.6 4.6 1.8 1.2 1.7-3.4 .1-.9M49.6 702.7l.1-.2 3.6-3.4 1 1M44.5 708.9l-1.8 3M73 728.7l-1-2.9 -.8-.3 -.1-2.8 2.9-.3 2.7 1.8 .1 .3 -.1 .1 -4.7 1.2M77 727.7l-.3-3.1M72.9 731.9l.1 .2 .4 .1M58.1 731.2l-2.2 .1M58.1 731.2l1.8 2.4M58.1 731.2l2.7-2.8 -3.3-2.1 -1.7 4.2M54 726.4l-.3-1.5 -3.6 2.9M58.9 722.9l-.5 .6 -1.8 1.5 -2.5-.3 -.3 .2 -.1 0M58.9 722.9l-.2-1.5 -4.3-.5 -.3 3.8M58.9 722.9l3.5 1 -2.5-5.2 -.5 .2 -.7 2.5M46.8 713.8l1.9-1.8M86.4 717.6l1.4-1.3 -1.9-3.1 -2.4-.2 1.8-3.3 -2.2-3.3 -.6-.4 -1.5 1 -.2 3.4 1.4 3.3 .1 0 .1 0 1.1-.7M85 717.1l-1.7-1.5 -3.4 3.5 1.2 1.1M96.8 724.7l5 3.1 1-1.1 .4-1.8 2.7-1.5M97.8 720.7l-1.8-1.9 .5-2 -.4-1.2 -3 .7 .3 3.7 2.6-1.2M115.4 707.7l.2 2.5M116.1 716.6l-.6 1M110.8 714.8l2.2 2.8M110.8 714.8l2.9-2.8 .5-.2M110.8 714.8l-.8-.1 -1.5-3.7 .8-2 4.4 3M110 714.7l-2.2 1.2 -.1 .5M84 732.4l.5-.1M91.9 733.4l.9 6.2M91.9 733.4l.3-.6 .6-.2M91.9 733.4l-3.9 2.9M90.6 740.5l-.4-.1M88 728.3l-.1 2.2M88 728.3l-3.2-3.8M88 728.3l2.8-1.2M92.2 732.8l-4.2-2.2M101.1 735.7l-.7 1.2 -2-.2 -2.1 1.9 2 2.2M101.1 735.7l2-.7 2.8 1.4 -.6 3.4 -1.7 1M101.1 735.7l-1.4-2.8M100.4 736.9l.4 1.3M70.4 704.2l.6 1.4 -4 2.4 -.8-.5M72.8 702.4l2.2-.7 .6-1.3 -1-2.3 -1.1-.6M74.6 698.1l2.3-1.4 3.4 .5 -2 3.4 -2.7-.2M73.7 713l-2.9 5.1 .1 .2 -.7 1.1 -5.6 .6 -.9-1.5 5.3-2.8 1.8 2.4M73.7 713l1.3 .1 1.8 3.1 2.8-2 -1.8-2.7 -1.4-.4 -1.4 2M73.7 713l-3-1.9 -2.4 2.5 -1.4-.3 -.5-2.8 1-1.7 3.4 1.7 -.1 .6M41.1 734.5l4.3 3.8 .9-1.5M49 727.8l-.9-4.7 -3.3 .8M53.8 724.9l-4.9-2.6 -.8 .8M62.8 713.9l-.6-.7 -.3-.8M62.8 713.9l4.1-.6M62.8 713.9l-.1 3.6 1 1M70.9 693.1l-1.1-5.6 2.5-.5 2.6 4.4 -.1 .4 -2.3 1.8M66.8 690.2l2.3-2.8 -.9-1.2 -4.3-.1M53.2 676.7l1.6 2.1 -1.8 2.2 -1.5-.5M54.8 678.8l1.6 1 .4 3 -2.5 .9 -1.3-2.7M54.3 683.7l-1 .7M50.1 686.9l-3.1 1.9M50.4 684.4l-1.7-1.5M127.7 735.8l-1.7-.1M127.7 735.8l.4-.1 1.6-3.5M127.7 735.8l-1.5 3.2M118.4 759.2l0 0 .5 1.8 -2.7 2.7M111.7 761.5l-.1 1M108.2 755.8l2.7-2.1 -1.8-1.9 2.7-1.9 2.5 2.2 -2.3 2.5 -1.1-.9M103.1 735l.4-3.6 -1.9-1.7M110 725.4l2.2 .8M108.8 725.5l-1.7 2.8 -4.3-1.6M112.2 726.3l-.7 4.9 1.6 .9 1.5-.2M116.5 735.1l-2 2.7 -1.7-1.9 -3.1 .6 .5 3.9 4.5-1.7 -.2-.9M125.6 711.3l-3.9 .3M126.8 709l.6 1.2 -.2 .3M124.5 707.5l-3 3.5M127.4 710.2l4.2-.5M117 702.6l.4-.8M113.8 702.1l1.3-3.6M113.5 697.1l-.9-.3 -.8-1.6 -1.8-1.4 -.5 .1 -1.4 .9 .3 4.6 2.1 1.1 2.1-3.7M118.3 694.1l-.2-.9 -1.7-.7 -4.6 2.7M108.1 694.8l-2.2 .1 -1.2 .6 -.2 4.8 0 0 3.9-.9M58.8 670.4l1.2-.8M58.8 670.4l-3-.2M58.8 670.4l.1 2.4 2.6 .4 -2.1 3.4 -1.4-1.5 .9-2.3M59 665l-.8-.2M64.7 680.9l1-.4 -3.2-4.4 -2.5 1.2 1.2 2.1M66.4 680.3l2.1 2.1 -.3 3.8M66.4 680.3l-.7 .2M66.4 680.3l1.1-2.3 .6-.1 1.8-3.4 -1.8-1.1 -1.6 2.6 1 2M63.7 670.4l-.2 1.7 -2 1.1M83.2 677.7l5.3-3 0 2.7 -1.1 2.3M83.2 674.1l2-2 3.5 1.9 -.2 .7M74.8 691.8l2.2 1.9 2.6 .1 .7-1.6M74.9 691.4l3.9-2.7M86.8 689.8l2.5 0 1 1.2 -1.5 3.3M85.7 691.7l-1.6 1M96.6 704.6l2.8-.9 1.3 1.2 4.3-2.2 .4 .6 -1.3 2.8 -3.2-.4 -.2-.8M96.6 704.6l.3 3.7 1.5 1 2.5-3.4 0-.2M96.6 704.6l-2.6-1.3 -1.3 3.3 -3.6 .2 -.4 3.6 -3.4-.7M101.4 691.9l3.4-1.6 .6-2 2.3-.1 .3 3.6 -3.2-1.5 0 0M101.4 691.9l-1.3-1.1 .4-2.1 4.7-.7 .2 .3M101.4 691.9l.6 2.7 2.7 .9M102 694.6l-2.5 2.1 -.6 0 -2.6-5.1 3.8-.8M105.9 694.9l-1.1-4.6M81.7 682.2l-.6-1.1M87.1 679.7l-4.1-1.5M98.4 709.3l.6 1.5 -.1 1.2 0 .5 3.5 2.4 1.9-1 .5-1.8 -1-2.7 -.4-.1 -4.4 1.5M96.9 708.3l-2.7 .5 .1 2.4 -1 1.5 -2.9 .3 -.9-1.7 3.9-2.9 .8 .4M92.2 721.1l1.2-1.1M92 720.9l-1.7-5.3 -.4-.4 -2.1 1.1M83.8 670.2l1.1 1 .3 .9M83.8 665.4l4 1.7 .7-1.5 3.9-.7 .1 1.7 -2.8 2 -1.7-1 -.2-.5M79.6 670.1l-.2-.2 0-3.7 .1-.1 3.6-.9M116.6 663.2l-.3 .3 -1.7 1 -2.2-2.2 -2.6 3.8 0 .1 3 .3 1.8-2M116.6 663.2l1.3 .2 .3 .3 .5 5.5 -.4 .4 .5 3.7 -2 1.3 -2.5-.7 -1.9 1.5 .1 2.1 1.5 1.9 2.8-1.5 0-3.3M116.6 663.2l-1.7-3.8 -1.3-1 -1.9 .9 .7 3M81.4 659.1l.7-2 -1-1.4 -4.3-1.2 -.6 .6 .7 3.6M160 691.1l-.1 .1 -3.8-2.4 2.5-2.7 1.8 .1 .9 2 -1.3 2.9 4.1 .5 1.4-2.8 -1.3-1.2 -2.9 .6M160.4 686.2l.8-1.9 -2.2-1.9 -2.2 1.2 1.8 2.5M164.2 687.6l.4-3.1M154.9 687.5l1.1 1.3 .1 0M154.9 687.5l1.6-3.9 .3 0M154.9 687.5l-2-.7 -2.1 1.9 2.5 3.4 2.7-3.3M159.9 691.2l-.1 .5 1.3 2.4M152.9 686.8l-.9-2.3 -4.2 0 -.8 4.2 0 0 3.8 0M147 688.7l-1.3-.3 -3.7-.1 -2 3.7 -.7 0 -.8 1 .9 5.3 .7 .7 1.4-1.4 -1.5-5.6 0 0M118.8 673.3l.8 .3 4.1-1.4 .2-.7 -1.8-3.3 -3.4 1M118.3 669.6l-1.6-.4 -2.1 0 -1.1 1.9 .8 2.8M113.5 671.1l-3.9 .3 .2 2.9 2.6 1.1M109.6 671.4l-1.8-2 -2.2 1.2 -3.2-1 -.6-2.9 6.4 .8 -.4 1.9M109.8 674.3l-1.8 1.4 -3.1-1.4 .7-3.7M110 693.8l2-4.4 -.1-.6 1.9-4 -1.5-2.1 1.7-3.3 4.1 3.1 -3.2 2.4 -1.1-.1M109.5 693.9l-1.5-2.1M112 689.4l3 1.1 2.5-3.2 -2.6-2.4M111.9 688.8l-3-1 -.1-1 2.5-4.2 1 .1M108.9 687.8l-1.2 .4M114 679.4l0 0M118.1 682.5l.6-.2 .4-3.1 -2.3-1.3M110.5 767.7l2.8-1.2M111.6 769.9l3.4-1.6 1.3 .5 .7 1.8 .2 1.9 -.3 0M112.7 775.2l.1 .4 4.3 2.7 -1.3 2 -3.6-.9 .6-3.8M124.1 769.4l-.5-1.4 -1.5-1.4 -5.1 4M124.1 769.4l-6.9 3.1 0 0M124.1 769.4l1 .9 3.2-.5 1.6 .1 .4 .4 3.5-.2M117.2 772.5l1.5 2.9 -.1 1.3 -1.5 1.6M135.1 767l-3.5-1.8 -1.7 4.7M128 782.7l0-4.9 .1-.1 .1-1.9 2.8-2.2 1.2 .7 -1.2 4.3 -2.9-.9M128 777.8l-3.2 .6 -.4 .3 -.5 0 -1.9-4 2-.8 .8 4.5M50 737.2l-1 4.1 .1 .1M49 741.3l-.4 .1M45.4 738.3l-.3 1.6M51.5 746.6l.1-2.9M63.9 730.8l-.1-.7 2.4-1.8 -1.5-4.9 -.5-.3 -1.7 .8 -1.1 3.8 -.1 .6 2.5 1.8M65.3 755l3.1-2.2 1.2 5.3 -1.4 .5M75.2 736.6l-3.3 .3M73 732.1l-1.9 2.1M69.6 743.1l2.3 .4 1.3 0M59.4 744.3l2.8-.3M59.4 744.3l-1.3-1M59.4 744.3l1 2.9M59.4 740.6l3.2 2.7M63.1 746.6l-1.9 1.3M77.9 765.1l-2.4 2.3M77.9 765.1l2.8 1.9 -.2 1.2 -3.2 2.2 -1.6-1.8M77.9 765.1l-.2-.9 -.5-.3 -4.2-.9 -.6 .8M80.7 767l1.2-.6 2.2 1 2.9-2.3 -.3-2.6 -2.1-.5 -.7-2.8 2.4-1.3M80.5 768.2l2.1 4.3 2.2-3.7 -.7-1.4M100.6 743.8l-5.3 1.9M96 747l-.6-.7M106 745.7l.7 2.2M102.8 744l-.7 4.9 -2.5 .3M98.3 751.9l.1 1.5M102.1 748.9l.5 .4M99.2 754.2l3.3-1.7 .7-1.3M93.8 759.8l2.4 .2 2.4 3.8 -5.5-1.6 .4-2.1M99.9 756.8l.3 .5 -4 2.7M94.8 766.3l-2.9 2.8 3.5 2.4 .9-.2 1.6-4.4 .2-.1 1.6 .8 1.8 4.8 -2.7 1.2 -2.5-2.3M94.8 766.3l3.1 .6M94.8 766.3l-2.5-2.9 -2.5 4 1.2 1.8 .9-.1M93.1 762.2l-.8 1.2 -4.7-1.4 .9-2.2M81.9 766.4l1.2-3.6 1.5-.8M82.8 745.5l-.4 1.6 -3.6 1 1.1 2.7 4.4 0 -1.9-3.7M127.5 752.6l-2.5 2.6 -2.3-1.1M127.6 750.8l-2.8-1.2 -.4-.8 .5-1.4M125 755.2l1.3 2.8 -7.9 1.2M138.4 749.6l-.4-.2M139.3 733.8l0 1.8 3.3-.6M139.3 733.8l2.5-2.4M139.3 733.8l-3.2-2.6M139.3 735.6l-.4 .8 .6 .9 3.9 1.6M133.9 733l1 3.5 4-.1M128.1 735.7l1.6 2.1 4.9-.6 .1 .8 -1 2 -4 .4 0-2.6M138.3 742.4l-.1-.6 1.3-4.5M153.8 735.5l.4 .4M156.3 747.2l1.8-2.7 -.8-2.1M159 749l1.9-.8 -.6-3.6 -2.2-.1M163.7 734.5l2.1 4.8 1.5-5.1 -.6-.6M165.8 739.3l0 .2M107.3 781.2l-1.8 2M107.3 781.2l2.5-.7 .3 4M107.3 781.2l-4.2-1.8 1.2-1.8 1.8-.7M106.6 774.2l-4.4-1.7 -.1-.1 2.1-2.2 2.6 .1M108.7 778.1l1.3 1.9 2.2-.6M102.1 772.4l-.6 0M102.2 772.5l1.1 3.6 -4.8-.6 .3-1.9M136.6 755l-.7-.8 .6-4.3M132.2 753.7l3.7 .5M131.8 749.8l3.6-.4M173.2 694.4l-1.3 1 -4.2-2.8 -2 1.3 0 .1 2.7 2.3 2.8 .3 .7-1.2M160.7 701.2l2 4 -3.2 1.7 3.1 3.6 2.9-2.3 -2.8-3 0 0M157.9 703l1 3.8M150.8 712.9l4.9 .6 .2 .2M151 709.2l.9-1.1M171.2 697.9l-3.8 2.4 4.7 2.5 -.2-3.8 -.7-1.1 0-1.3M153.8 749.8l-.6 2.5M148.3 759.7l-.9 3.2M150.7 757.8l1.2 1.3 .3 1.6 1.6 3.4 -.1 .5 -.7 .5M169.2 747l-3.5-1.4M170 744.1l-2.9-3.1M182.3 725.6l-.2 .1M181.5 737.1l-.8 .2M132.8 712.4l-.4 1.6 -2.9 1.3 -.9-.3M134.4 707l.9-.7M125.5 719.6l4.6-1.5 -.6-2.8M131.6 700.9l2.7-.9 1.4 1.7M131.7 703.1l3.5 .6M134.3 700l-.1-3.7 -2.9-1.3M143.2 692.9l.5 3.8M143.2 692.9l-3.2-.9M143.2 692.9l3.3-1.4 1.4 3.3 -1 1.9M139.5 704.1l1-.2 1.1 2.8M136.5 701.5l3.6-2.2 1.8 2.5 -1.4 2.1M145.9 704.5l-2.5-2.4 -1.5-.3M140.1 699.3l0-.3M143.4 702.1l1.3-1.9M166.4 729.6l.1 0M171.5 733.3l.3-.6M168.5 734.4l-1.2-.2M124.1 730.4l-1.2 1.8M119.6 732l.9 1.2M177 703l-.9 3.7 3.3 2M176.3 726.9l-3.5-.9 -.3-.3M181.2 714.8l-3.5 1.3M176.8 702.8l-4.5 .5 -1.2 1.8 3.5 2.8 1.5-1.2M171.9 699l3.5 .2 1.3 3.3M172 712.5l.1-.3 2.5-2.5 4 .9M172.1 712.2l-1.7-5.5 -3.4 2.6 -1.1-.9 2-4.1 3.1 .8 -.6 1.6M64.5 670.1l3.9 .6 .4-.2 .6-1.2 -2.1-5.3 -.4-.1M66 663l1.5-3.8 .2 0 5.9 2.7M69.4 669.3l3.5-2.1M67.3 664l5.1-.3M45.1 719l0 0 3.8 1.7 .1 .1 -.1 1.5M47.1 715.8l1.8 1.6 0 3.3M60.1 711.2l-2.6 .4 -2.1-3 .8-2.1M62.2 713.2l-4.1 1.7 -1.3-2.4 .7-.9M44.5 695.8l.9 .3M58.5 698.7l-1.5-1.7M57.5 726.3l-.9-1.3M60.8 728.4l.5-.1M58.4 723.5l3 4.2M59.4 718.9l-2.6-1.5 -2.9 1.6 .5 1.9M78.5 724.3l-1.7 .2M73.5 718.5l.5 3.9M73.5 718.5l-2.6-.2M73.5 718.5l3.1-.5 .4 .5 -.3 5.7M76.6 718l.2-1.8M77 718.5l2.1 .3 .8 .3M83.3 715.6l-.9-1.9M79.1 718.8l3.2-5.1M106.3 720.9l0-.1M103.2 724.9l-1.6-1.7 -.4-.1M107.8 715.9l-3.5-2M86.9 734.4l.3 1.7M83.6 736.7l1.1 .2M83.4 741.6l2.8 .1M95.3 733.1l.1-.1M98.4 736.7l-2.8-3.5M94.8 738.7l1.5-.1M70.2 721.1l.9 1.6M70.2 721.1l0-1.7M70.2 721.1l-3.2 2.6 2.4 2.6 1.8-.8M62.7 717.5l-2.8 1.2M62.4 723.9l.1 0M71 705.6l1.2 1.5 2.2-.9 3.5 1.8 -1.6 2.2 -4.1-2.7 0-.4M82.8 703.6l-3.6-1.9 -.9-1.1M82.8 703.6l-.3 2.4M82.8 703.6l.4-.6M75 701.7l.9 2.5 1.1 .3 2.2-2.8M80 707l-2.1 1M80 707l-3-2.5M80 707l1 0M75.9 704.2l-1.5 2M88.7 710.4l.4 .6 -3.2 2.2M85.5 698.7l4.5 1.9 .1 1.1 3.7 1.3 1.6-3 -3.5-3.3 -1.5 .4 -.4 3.5M69 715.7l-.7-2.1M64.6 720l-.4 3.1M63.6 709l2.8 1.5M67 708l.4 .8M117.1 749.2l-.9-2 -1.7-1.2 -2.2 1.2 -.5 2.7M117.1 749.2l-2 2.9 -.8 0M117.1 749.2l2.6 1.1 1.7-1.9 -.5-3.2 1.9-.1M122.7 740.2l-2.1 1.9 -.2 1.6 -5.1-.3 .8-3.6 .2 0 4.3 2.3M122.7 739.8l-.8-2.6M128.1 742.5l1-.4 3.7 2.1M120.8 736.4l-4.5 3.4M107.9 751.8l1.2 0M111.1 746.9l1.2 .3M112.2 756.3l-.2-1.7M115.9 753.2l-.8-1.1M114.2 758.1l.8 0M105.5 731.3l-2 .1M105.5 731.3l1.8-2 -.2-1M105.5 731.3l2.4 3.4 -.1 .5 -1.9 1.2M107.3 729.3l3.7 2 -3.1 3.4M101.8 727.8l-.4 1.6M105.3 739.8l3.2 1.4M100.9 705.9l2.5 3.4M104.5 700.3l-.1 0 -4.9 2.9 -.3-1.5 1.7-2.6 3.5 1.2M99.4 703.7l.1-.5M108.5 711l-3.7 1.1M109.3 709l-.1-.8M104.9 708.3l3.7-1M104.9 708.3l-.8-2.2M104.9 708.3l-1.1 1.1M104.5 700.3l.5 2.4M108.7 705l-3.3-1.7M111.2 702.7l-.7-2.2M56.4 679.8l3.2-2.7 .4 .2M56.8 682.8l1.6 .8M62.5 676.1l1.7-1.5 -.7-2.5M59.6 677.1l-.2-.5M64.2 674.6l2.3 1.4M68.5 682.4l2.7-.1 3.1 2.1 -2 2.6M69.8 687.5l-.7-.1M78.1 676.2l-2.1-2.8 -.5-2.6 3.9-.9M91.7 682.5l.9-.7 2.7 .2 1 1.5 -2 3M92.6 681.8l-.2-2.6 -3.9-1.8M88.6 695.8l1.8 1.3M99.5 696.7l1.4 2.4M95 688.7l1.4-1.2 3.7-.2 .4 1.4M90.3 715.6l2.8 .7M96.1 715.4l0 .2M96.1 715.4l2.8-2.9M96.1 715.4l-2.8-2.7M119.6 645.2l-2.9-1.1 -.1-.3 -1.2-.5 -1.2-5.3M119.6 645.2l2.7-1 -1.7-3.6 .2-.8M119.6 645.2l.4 3.8 3.3 .2 0 0 .8-1.9 5.6 1.7 0 .1 5.4-1.5 -1-3.2 -1.7-1.3 -1.2-.3 -2.7 1.6 1.2 4.6M126.4 638l-1.7 3.3 .9 2.9 -1.2 .9 -2.1-.9M129.3 638l1.9 4.8M128 638.2l-1.9 5.9 -.5 .1M115.4 643.3l-4.3 .1 -.7 .7 1.6 3.9 -2.1 1.6 1.3 3.8 1.5 .5 2-2.1 .3-2.5 -3-1.3M116.6 643.8l.2-.4 .2-3 -1.3-2M116.7 644.1l-1.2 4.9 -.5 .3M115.5 649l3.7 .4 .3 3.2 -1.3 1.6 -3.5-2.4M126.1 644.1l2.4 .3M80.2 660.7l-.8 1.1 .1 4.3M111.7 659.3l-2.5 .4 -1.7-1 -3.6 1 -.2 .2 -1 3 2.3 1.1 4-2.3 .2-2M116.3 663.5l.4 5.7M114.6 669.2l-1.8-2.7M98.2 669.3l2.8 1.5 1.4-1.2M98.2 669.3l2-2.3 1.4-.6 .2 .3M98.2 669.3l-.1 0 -1.2 3.1 -1 .5 -.1 3 2.3 1.8 1.5-.3 -.8-4.9 -1.9-.1M100.7 671.8l.3-1M100.7 671.8l1.8 3.8 .4 0 2-1.3M100.7 671.8l-1.9 .7M108.3 667.3l-3.3-3.3M108.3 667.3l1.5-1.1M108.3 667.3l-.1 .2M103.9 659.7l-.7-3.1 2.2-2.8 1.9 1.3 .2 3 5.2-4.2 0 0M107.5 658.7l0-.6M109 661.7l.8 4.4M103.7 659.9l-4.1-1.9 -1.9 2.1 -.8 2.5 5 1 .8-.7M87.4 662.1l-2.5 1M87.4 662.1l.5 .8 4.6 1.5 -.1 .5M87.4 662.1l1.1-2.5 .8-.2 1.5-1.3 -.5-2.1 -3.9-2.6 -1.2 2.7 2.8 3.2 .5 .3M82.8 660.1l5.2-.8M102.5 681.4l-2.5-4 2.5-1.8M102.5 681.4l2.7-1.3 2.7 2.1 1.4-.3 -.2-3.5 -1-1.2 -2.7 1.9 -.2 1M102.5 681.4l-.1 .4 -2.1 1.1 -.9 1.5 .9 2 4.1-1.2 0-.1 -2-3.3M100 677.4l-.4 0M95.3 682l2-2.1 .8-2.2M97.3 679.9l3 3M96.3 683.5l.9 .7 -.8 3.3M164.1 691.6l1.6 2.3M165.5 688.8l2.4 0M166.5 680.2l0 0M156.5 683.6l-2.7-2 -1.8 2.9M159.8 691.7l-2.5 2.3M146.7 682.4l.2 .1 .9 2M146.7 682.4l-1.8 .3 -1.4 2.6 -2.6 .5 -.7-.9 4.1-2.3 .6 .1M146.7 682.4l0-2.1 -2-3.3 -.6 0 -.6-.7 -3.3-1.8 -1.1 .3 -3.2-2.4 -1.2 1.2 -2.7 .1 -1.5 1.3 -2.6-.7 .2-2.8 2.3-1 .3-.8 -.2-2.3 -1.1-1.3 -2.1-.2 -.7 4.5 1.5 1.1M112.5 677.5l-3.4 .9M117.5 687.3l.9 .1 1.9 3.3 0 0 3.7-3.9 -.1-.4 -.7-1.1 0-.1 -4 1.4 -.8 .8M115 690.5l1.4 2M118.1 693.2l2.2-2.5M105.2 688l-.8-2.8M107 683.7l1.8 3.1M107 683.7l.9-1.5M107 683.7l-2.6 1.4M111.3 682.6l-2-.7M116.3 768.8l.7-1.8 4.4-1.6 .7 1.2M115 768.3l-1.3-1.4M110 780l-.2 .5M125.1 770.3l-.3 2.7 3.4 2.8M124.8 773l-.8 .9M130.3 770.3l.7 3.3M123.6 768l3.2-3.4 -3.4-2.4 -2.3 .8 .3 2.4M126.8 764.6l.4-.1 -1.8-4.3 1.2-1.8 .2 0 1.8 5.2 .1 .4 -1.4 .5 -.1 0M130.3 757.9l-3.5 .5M133.2 779.4l.1-4.1M132.7 779.9l-1.7-1.3M132.6 774.4l-.4-.1M61.4 762l2.1-1.4M68.7 765.3l-.4 3.6M65.9 763.9l-2.3 2.1M63.3 758l-1.6-1.1 1.4-3.2M66.9 760.7l2 2.1 .7 1.3M102.5 752.5l2.5 2M107.7 751.7l-.2-.2M104.5 758.2l-3.4-.1 -.9-.8M105.5 758.9l.2 3.9 3.3 .9M102.9 767.5l1.3 2.7M102.9 767.5l-3.2 .1M102.9 767.5l1.8-2.5 2.6 2.5M98.1 766.8l.7-3 -.2 0M95.4 771.5l-2 2.3 -4.6-.4 2.2-4.2M83.1 762.8l-3.4-1.2 -2 2.6M83.9 759.2l-1.9-2.3 0-.8 2.7-2.5M92.3 763.4l0 0M89.8 767.4l-1.1-.3 -1.7-2M87.6 762l-.9 .5M85.3 751.5l-1-.7M78.8 752.3l1.1-1.5M78.8 752.3l1.3 3 1.9 .8M78.8 752.3l-3.3-.2 -.1-.1 .5-4.3 -4.1 1.1 -1.1 1 4.7 2.2M138.2 741.8l-3.5-3.8M134.9 736.5l-.3 .7M134 744l-.3-4M129.1 742.1l.6-1.7M158.9 751.4l4.2 .2 .2 2.5 2.5 .7 1.8-2 -.6-2.6 -3.4 .1 -.5 1.3M158.4 752.4l-.1 1.9 .5 .5 2.8 .4 1.7-1.1M173.4 686.7l-1.3 1.3M173.4 693.2l-1.9-1.9M165.6 712.8l-3-.5 -.6 .5M167.4 710.7l-.4-1.4M162.6 712.3l0-1.8M171.1 705.1l-.1 0M172.3 703.3l-.2-.5M165.7 702.5l.1-1.9 -.5-.7 -1.3-1.1M165.7 702.5l-3 2.7M165.7 702.5l2.2 1.8M165.8 700.6l1.6-.3M154.6 754.6l.6 .2 3.1-.5M151.9 759.1l3.7-.2 -.4-4.1M152.2 760.7l-4.4 2.3M153.7 764.6l3.6 1.8 .5 2.2 3.8 1.3 .3-.1 .4-.4 -2.8-4.6 -2.2 1.6M153.8 764.1l2.3-2.2 4.6 .5 -.1-2 -2.3-1.9 -2.2 .7 0 2.7M142.6 773.6l1.2 1.6 3.6-2.2 1.5 1.4 -1.7 3.5M144.4 770.3l.8-.3 2 1.4 2.1-.9 1.3 .5 2.4-1.7 -.6-2.7M150.6 771l.5 3.1 -2.2 .3M153 769.3l2 1.7 -3.2 3.4 -.2 0 -.5-.3M174.6 749.5l-.9 5.9M181.1 746l-1.1 .1 -3.1 3.8M161.9 739.8l.7 .5M130.1 718.1l1.1 1.1M132.4 714l1.2 1.5M147 688.7l-.1 1.8 6.3 2.3 .1-.7M143.4 696.9l-1.9 .7M169.4 724.1l-1.5 4.7M172.8 726l-2.1 3M174.6 709.7l0-1.8M175.4 699.2l1-2.7M161 670l-4.1-3.8 -2.2 2.6 1.6 1.9 4.7-.7 .5 .2M63.7 656.8l2.4 .6 1.2-3.5 -4.2 2.2M73.6 661.9l-1.8-5.2 3.8-1.5 .6-.1M48.9 717.4l3.1-1.1M45.1 719l-1.2 3.9M49 720.8l4.7-1.9 .2 .1M55.4 708.6l-2.4 2.5M44 690.9l3.8 1.7 .4-1.3M47.8 692.6l-.1 2.4M49.7 702.5l0-3.1M53.3 699.1l-.6-2.6M51.4 695.9l-.9 .1M99.1 720.4l2.3-2.6 .5-.1 .9 1M101.6 723.2l1.4-4.1M101.4 717.8l-4.9-1M101.9 717.7l.5-2.8M69.4 726.3l-1 1.8M68.3 728.1l-2.1 .2M67 723.7l-2.3-.3M80.3 697.2l0 0M79.6 693.8l1.3 2.7M76.9 696.7l.1-3M79.6 714.2l2.6-.5M76.4 711.1l-.1-.9M77.8 711.5l3-1.1M72.2 707.5l-1.4 3M83.1 706.4l5.6-.1 .4 .5M94 703.3l-.2-.3M88.9 702.6l-.2 3.7M88.9 702.6l-4.7-.4M88.9 702.6l1.2-.9M92.7 706.6l.7 1.8M120.9 745.2l-.2-.2 -4.5 2.2M120.7 745l-.3-1.3M114.5 746l0-1.3 -3.2-2.3M110 740.7l.2-.3M114.5 744.7l.8-1.3M107.8 735.2l1.9 1.3M113.1 732.1l-.3 3.8M111.5 731.2l-.5 .1M98.9 712l-4.6-.8M58 675.1l-4.3-.9M74.3 684.4l.5-.1M71.7 680.4l3.3-.3 0-2.2 3.1-1.6M71.7 680.4l-.5 1.9M71.7 680.4l-.5-2.7 1.4-.9 2.4 1.1M81.1 679.4l-.1 .6M75 680.1l.3 .9M68.8 670.5l3.1 2 3.3-1.8 -1.3-2.7M68.4 670.7l-.3 2.7M90.3 691l4.2 .5 .4-.3 .1-2.5M90 686.5l-.7 3.3M96.3 691.6l-1.4-.4M98.9 696.7l-1.5 .7 -1.2 2.1 3 2.2M94.5 691.5l-.8 3.4 3.7 2.5M89.1 711l.4 .3M89.9 715.2l.5-2.2M123.9 671.5l2.7-1.1M122.1 668.2l.2-.3 -.9-2.8 -3.2-1.4M122.3 667.9l4.9-2.1 .1 .1M127.2 665.8l-.9-1.9 -4 .1 -.5-3.4 2-.4 2.4 1.8 .1 1.9M139.1 674.8l-.1 .8 -1.7 3.2 1.2 2.2 2.2-.9 1.4-1.7 -3.1-2.8M119.7 639.1l-2.7 1.3M116.8 643.4l3.8-2.8M124.7 641.3l-3.2-2M124.4 645.1l-.3 2.2M141.4 661.9l.4-2.3 1.9-2.1 2.7 .5 -.5 3.8 1.8 2.5 3.1-3.6 .1-1.3 -3.9-1.6 -.6 .2M141.4 661.9l4.5-.1M141.4 661.9l-.1 .1 .2 2.7 -.6 1.3 -5.3-1.8 -.6-1.6 2.8-1.2 3.5 .6M111.1 643.4l.2-4.4M109.7 644.2l.7-.1M109.7 644.2l-2.1 4.1 -3.1-.4 0 3.6 3.4-.6 .8-1.3 -1.1-1.3M109.7 644.2l-.2-.1 -5.6 .5 -.2 2.2 .8 1.1M133.3 658.8l-3-1 -1.4 2.4 2.6 3.5 2.9-1.4 .6 .3M133.3 658.8l1.1 3.5M133.3 658.8l.6-.6 -1.6-4.6 1.5-.7 -4.2-3.5 -1 1.9 0 1.3 1.6 1.7 2.1-.7M133.9 658.2l1.8-1.6 0 0 1.9-.7 1.5 .7 .5 1.4 -1.8 1.3 -2.1-2.7M134.1 652.8l-.3 .1M134.1 652.8l1.6 3.8M134.1 652.8l1.4-1.9 -.3-3.2 3.3-.5 2 1.2 .7 2 -.5 1.9 -1.9 .4 -3.3-1.8M79.4 666.2l-1.3-.4M79.4 661.8l-4.2 1M99.6 658l-.8-2.6 -3.2 1.4 2.1 3.3M100.2 667l-3.3-.5 -.2-3.8 .2-.1M101.6 666.4l.3-2.8M107.3 655.1l1.7-1.4 2.2-.3M109 653.7l-1.1-2.8M112.7 653.9l.9 4.3 0 .2M103.7 646.8l-3.7 1.8 -.2 4.4 4.4-.9 1.2 1.7M98.1 669.3l-1.9-1.3 .7-1.5M87.9 662.9l.6 2.7M76.8 654.5l.2-1.1 -1.9-3.5 1.5-2 -.1-.5 1.8-2.7 -1.2-2.1M77 653.4l3.3-2.4 -.9-2.8 2.8-2.4 2.2 1.8 .5 3.5 -3.1 .8 -1.5-.9M75.1 649.9l-.1 0 -2.2 2.6 -3.1 .6 -.5-.6M108 675.7l.1 1.5M102.9 675.6l2.5 3.5M123.7 672.2l1.8 3.3 -.1 .4 -3.6 1.7 -2.2-4M121.8 677.6l-.2 .3 1.4 2.5 2 1.5 2.9-1.1 1 .4 1.8-.7 .6-1.2 -.7-3.7 -3.9 2.6 1.2 2.6M125.5 675.5l2.4-1.2M125.4 675.9l1.3 2.3M130.5 675l.1 .6M164.7 695.2l1-1.2M165.3 699.9l3.1-3.6M158.8 678.4l1.1 .4 .5-.1 1 .5 4.2-2.2M158.8 678.4l-2-3.4 -.3-.6 .1-.2 -.3-3.5M158.8 678.4l-4.7 1.9 2.7-5.3M162.6 680.3l-1.2-1.1M159.9 678.8l-.9 3.6M161.2 684.3l1.7-.6M144.1 677l-2 1.4M156.6 674.2l5.4-1.8M154.7 668.8l-.4 .1 -2.9-2.8 2-2.6 3.2 .1 .5 .5M156.9 666.2l.3-1.6M160.4 697l-2.8-1.7M155.7 699.3l0-.1M146.9 682.5l6.3-2.3 .4 .3 .2 1.1M100.1 687.3l.2-.9M97.2 684.2l2.2 .2M117 767l-.6-2M125.1 782.8l0 0 -3.8-3.2 -.6 2.8 1.1 2M115.8 780.3l.2 1 4.7 1.1M123.4 762.2l2-2M121.1 763l-2.2-2M126.3 758l.3 .4M131.1 758.6l-2.5 5M132.8 762.9l-1.3 2.2 .1 .1M77.3 770.4l.1 2.8M55.2 747.4l.8 .5M58.2 751.3l0-.6M58.2 751.3l2.3 1.8 -2.1 3.1M58.2 751.3l-2.2 1.8M61.7 756.9l-1.4 .4M60.5 753.1l2.2-.3M68.9 762.8l3.9-3.6 -.5-.9 .3-.6 2-2.5 3 1 -.1 3.2 -1.7 .4 -2.9-.5 -.1-.1M73 763l-.1-3.7M98.8 763.8l.3-.2 1-1.9 5.3 1.5 -.7 1.6 -5.6-1.2M101.1 758.1l-1 3.6M104.7 765l0-.2M105.7 762.8l-.3 .4M88.7 767.1l-2.4 2.1 -1.5-.4M69.6 758.1l2.7 .2M68.4 752.8l.6-1.4 0-.3M71.9 743.5l-.1 5.3M76.4 745.8l.1 .9 2.3 1.4M76.5 746.7l-.6 1M74.6 753.8l-4.6-1.6 -1-.8M74.6 753.8l.9-1.7M74.6 753.8l0 1.4M70.2 749.9l.5-.1M70 752.2l2.6 5.5M80.1 755.3l-2.5 .9M82 756.9l-2.6 3.2 .3 1.5M77.2 763.9l-1.4-4.1M79.4 760.1l-1.9-.7M165.9 758.9l1.1-1.5 1 0 3.4 1.2 .4 0M165.9 758.9l-3.6-.8 -.7-2.9M165.9 758.9l.1 3.5 -2.6 .5 .4 5.7 .4 0 2-5.9 -.1-.2 -.1-.1M167 757.4l-1.2-2.6M169.2 747l-2.2 3.2M172 748.6l-1 4.7 2.4 2.1M168 757.4l2.5-4 .5-.1M170.5 753.4l-2.9-.6M171.4 758.6l-2.9 3.2 3.2 1.5M163.6 750.3l-1-1.8 -1.7-.3M162.3 758.1l-1.7 2.3M82.6 772.5l0 .7M86.3 769.2l2.1 4.4M93.4 773.8l1.1 3.1M88.8 773.4l-.4 .2M168.6 690.5l-.9 2.1M159.1 706.9l.2 5.1M159.1 706.9l.4 0M159.1 706.9l-.1 0M155.7 713.5l-.3-3.4M165.5 708.2l.4 .2M145.2 770l1.1-3.4M149.3 770.5l-.2-2.9M147.2 771.4l.2 1.6M151.6 774.4l-.5 3.5 -3.3 .5M176.8 744.9l3.2 1.2M160.3 744.6l2.2-1.6M162.6 748.5l2-2.9M134.2 696.3l.3-.1 4.9 2.1M134.5 696.2l1.9-2 2.1-1.2M136.4 694.2l-2.8-3.9 -.4-.1 -.8-3.1 1.1-1.2 3.4 .1 .4 3 0 .8 -3.7 .5M131.5 692.4l1.7-2.2M139.3 692l-2-2.2M146.5 691.5l.4-1M147.9 694.8l4.6 .2M153.2 692.8l.1 .7M160.2 658.2l-2.8 .6 -1.4 2.5 -3.6-3.1 .4-.9 1.9-.7 2.7 2.2M156.6 663.6l-.6-2.3M67.5 659.2l-.7-1.2 -.7-.6M67.7 659.2l4.1-2.6 0 .1M76.6 647.9l2.8 .3M53.7 718.9l-1.7-2.6M56.8 717.4l.1-.9 1.2-1.6M121.4 748.4l3 .4M119.7 750.3l.2 .7M124.8 749.6l-.4 .6M116.1 739.8l-1.4-1.1M71.9 672.5l0 1.6 .6 1.4 3.5-2.1M75.5 670.8l-.3-.1M72.6 676.8l-.1-1.3M71.2 677.7l-3.1 .2M71.9 674.1l-2 .4M96.2 699.5l-.8 .5M93.7 694.9l-1.8 1.8M145.9 652.5l-3.4 1.8 0 .4 1.2 2.8M145.9 652.5l1.3 .7 2-2.8 1.1 3.5 -2.4 .1 -.7-.8M145.9 652.5l-.5-2.6 .2-.5 3.7-.6M120.8 660.4l-2.9 3M120.8 660.4l-1.1-2.1 -4.8 1.1M120.8 660.4l1 .2M121.4 665.1l.9-1.1M153.4 663.5l-2.6-2.8M147.7 665.2l0-.9M147.7 665.2l-6.2-.5M147.7 665.2l.1 .3 1 .6 1.1 3.7 -3.1 1.2 -1.1 .1 -.2-.3 -.1-1.8 2.4-3.5M141.8 659.6l-2.2-1.6M134.1 639.8l-1.7 3.3M109.9 649.6l-1.2 0M119.7 658.3l.2-1.8 -1.6-1.6 -4.7 3.3M123.3 649.2l5.3 2.1M129.6 649.4l.1-.3M119.9 656.5l2.2-.9 .8-2.9 .3-.2 3 1.2 -.5 3.1 -1.1 .5 -2.5-1.7M118.2 654.2l.1 .7M131.5 663.7l-2.1 2.4M135.2 667.6l-4.7-.2M135.2 667.6l.3 .6 .2 2.6 -5-1.1M135.2 667.6l.4-3.4M92.4 679.2l1.2-2.6 -4.2-2.9 -.7 .3M93.6 676.6l2.2-.7M89.4 673.7l.7-1 4.3-1.1 1.5 1.3M84.9 671.2l3.1-3.6M104.2 652.1l.3-.6M103.2 656.6l-3.5-3.5 .1-.1M94.4 671.6l.2-2.9 1.6-.7M90.1 670.3l0 2.4M90.1 670.3l4.3-1.7 .2 .1M90.1 670.3l-.4-1.7M92.5 664.4l.5-.6 2.8-1.3 .9 .2M94.4 668.6l-1.9-2M141.2 687l.8 1.3M141.2 687l-3.9 2M141.2 687l-.3-1.2M145.7 688.4l-2.2-3.1M132.4 687.1l-2.4-.4 -.9-1 -.3-.5 .1-4M133.5 685.9l-.4-3.6 5.2-.9 .5 2.7 -1.9 1.9M133.1 682.3l-2.4-1.8M135.1 677.5l-3.8 1.8M135.1 677.5l-.4-3.9M135.1 677.5l2.2 1.3M138.8 684.1l1.4 .8M138.3 681.4l.2-.4M130 686.7l-1.6 2.8 .4 .9M125 681.9l-1.8 3.4M132 673.7l-1.6-3.2M135.9 672.4l.1-.6 -.3-1M135.5 668.2l5.2-1.2 -.3 3.3 -4.4 1.5M140.9 666l0 .7 -.2 .3M137.8 661.4l0-2.1M160.4 678.7l2.3-5.2M140.2 674.5l1.4-2.9 -1.2-1.3M143.5 676.3l-1-4.6 -.9-.1M146.5 675.1l-1.8 1.9M146.5 675.1l2 .1 1.2-.5 3 3.1 0 1.3 -3.3-.5 -.9-3.4M146.5 675.1l-.8-4M146.7 680.3l2.7-1.7M142.5 671.7l3-.9M140.9 666.7l4.5 2.3M154.3 668.9l-2.5 2.2 -.1 1.3 3 2.4 -2 3M151.4 666.1l-2.6 0M154.7 674.8l1.8-.4M153.2 680.2l-.5-1.1M154.1 680.3l-.5 .2M125.1 782.8l-.7-4.1M121.3 779.6l0-.6 -2.7-2.3M121.7 784.4l-5.2 .5M116 781.3l-.4 2.5M128.3 769.8l-1-5.3M131.5 765.1l-2.8-1.1M158.8 754.8l-.5 3.7M155.6 758.9l.5 .3M160.7 762.4l.2 .3 .1 0 2.2 6.1 -.9 .6M98.5 775.5l-.1 .4M103.1 779.4l-1.1 1M104.3 777.6l-1-1.5M143.9 776l-.1-.8M151.1 777.9l2.4 1.9M151.8 774.4l3.1 1.7 2.4-2.5 -1.7-2.5 -.6-.1M155.6 771.1l2.2-2.5M157.3 773.6l1.6 .4 1.6 2.3M154.9 776.1l.1 1.8M160.9 762.7l-1.4 2.1M154.7 656.6l.9-1.1 2.1-1M152.8 657.3l-1.7-3.4 1.9-3M152.4 658.2l-1.5 1.2M66.8 658l3.2-4 1.8 2.6M67.3 653.9l.9-1.5M75.6 655.2l-2.8-2.7M70 654l-.3-.9M76.5 647.4l-2-2.9M56.8 712.5l-2.4 .6M56.9 716.5l-2.5-3.2M153.1 650.9l2.5 4.6M149.6 649.3l-.4 1.1M151.1 653.9l-.8 0M126.2 662l.8-.7 1.9-1.1M123.8 660.2l.8-2.9M127 661.3l-.4-4.2 3.5 .4 .2 .3M126.6 657.1l-.9-.3M128.6 652.6l-2.4 1.1M130.2 654.3l-.1 3.2M147 657.8l.9-3.8M142.5 654.3l-1.8-2M142.5 654.7l-3.4 1.9M145.7 645.9l-.8 1.2 .7 2.3M135.1 647.6l.1 .1M134.1 644.4l4.1-3.1 .4-.4M138.2 641.3l.3 5.9 1.6-2.2 2-.2 1.1-2.1M123.3 649.2l-.1 3.3M119.5 652.6l3.4 .1M120 649l-.8 .4M90.9 639.8l-3.6 3.2 -.2-.1 -2.1-3.3M82.1 657.1l3.1-1M81.1 655.7l.7-3.8M95.6 656.8l-1.3 0 -1.2 1.2 2.7 4.5M98.8 655.4l.8-2.2 .1-.1M99.7 639.7l-4.3 3.6 -2-1 -.2-.5M101.1 643.1l-1-3.3M101.1 643.1l-3.4 2.1 -1.1-.5 -1.2-1.4M101.1 643.1l2.8 1.5 0 0M93 663.8l-3.7-4.4M144.3 682.6l-3.6-2.5M128.8 685.2l-4.9 1.2M129.1 685.7l-3.5 3.3 0 0 2.8 .5M124.5 692.8l-.1-.2 1.2-3.6M121.6 677.9l-2.5 1.3M123 680.4l-2.7 2.4 -1.4-.4 -.2-.1M149.7 674.7l1-1.5 1-.8M151.8 671.1l-1.9-1.3M150.7 673.2l-3.9-2.2M121.3 779l2.6-.3M118.7 775.4l3.3-.7M168.3 769.5l-4.1-.9M166.4 773.9l-3.8-2.7 .3 5M158.9 774l2.7-4.1M162.6 771.2l-.7-1.4M78.3 644.7l3.8 .2 -.3-1.1M82.1 644.9l.1 .2 4.9-2.2M137.6 655.9l1.2-3.2M138.5 647.2l0 0M82.2 645.1l0 .7M88.6 645.4l-.4 .7 -3.8 1.5M88.6 645.4l-1.3-2.4M88.6 645.4l2.9-.6 1.9-2.5M88.2 646.1l1.2 3.5 -.9 1.7 -2.1 .9 -1.5-1.1M86.4 652.2l0 1.2M97.7 645.2l.8 2.3 1.5 1.1M103.9 644.6l1.7-5.4M109.5 644.1l-3.4-5.1M118.9 682.4l.3 4.2M120.3 682.8l2.9 2.4M163.2 768.8l.6-.2M161 762.7l2.4 .2M169.3 766.9l-3.1-4.2M168.5 761.8l-2.4 .7M75 649.9l-4-1.2M142.9 646.9l2 .2M142.9 646.9l-.8-2.1M142.9 646.9l-2.4 1.5M145.4 649.9l-4.2 .5M140.1 645l-.4-3.7M94.3 656.8l-.2-1.5 -2.7-1.8 -1.1 2.5M93.1 658l-2.3 .1M96.6 644.7l-2 2.7 .9 2 -.5 1.8 -1-.1 -2.2-2 .6-2.2 2.2 .5M91.5 644.8l.9 2.1M98.5 647.5l-3 1.9M99.6 653.2l-4-1.3 -1.5 3.4M125.6 689l-1.6-2.2M124.4 692.6l-4.1-1.9M89.4 649.6l2.4-.5M88.5 651.3l2.8 1.7 .1 .5M91.3 653l2.7-1.9M95.6 651.9l-.6-.7"/>
<path fill="#6dfa9c" d="M263.7 658.2l-.7 1.4 1.6 3.5 -.3 .5 -5.6 .5 -.6 .9 .1 .4 -3.2 5.1 1.2 2.3 -1.4 2.2 -4.9-.3 2.1 4.9 -2.1 2.5 -.3 .9 -.1 3.1 3.5 2.7 0 .7 -1.7 .5 -2.9 3.4 -1.4 .4 -.1 2 4.6 3.1 -.6 1.5 2.2 4.2 .5 .4 0 .3 -3.3 3.5 2.6 4.3 -1.1 2 -.1 2.7 -4.8 1.4 1 3 -1.7 4.6 2.6 2.5 1.5 .9 -1.5 3.8 1.1 1.6 .4 1.4 -.7 4.6 1.4 .9 1.5-.2 2.7 1.7 .1 1.4 -.3 .6 2.2 4.5 3.9-.6 -.3 4.1 2.3 1 -.4 2.4 .9 1.9 .8 .2 2 2.2 3.3-.1 .6 .8 -1.8 3.5 1.1 2.1 .6 .5 .9 1.5 5.3-1.8 .7 1 2.4 1.1 .1 .9 1.3 1.7 .3 3.2 3.6-.1 .7 .7 3.7-.6 1.7 1.3 .5 1.7 3 .2 1-.6 2.8 1.1 .9 3.2 1.2 .2 3.3-1.6 1.2-1.4 5.2 1.4 .3-.1 2.2 .1 .5-.3 1 .2 1.9 1.3 2.5 1 .3-.1 2.5 2.1 2.2-2.1 2.8 1.2 .7-.3 1.2-3.1 -.1-.4 3.2-1.6 1 0 .6 .4 3.9 .7 1.4-.9 3.1 2.1 2.6-2.2 3.1 1 .6-3.3 1.2-1.3 1.7 1.8 2.1 .7 1.6-.9 2.5 .5 .7-.4 .9-2.8 1.2-.3 .6 .1 2.1-.5 2.8 .8 .5-.2 1.1-2 .4-.1 4.1 1.4 1.5-1.2 -1-3.8 2-1.4 3.9 2.2 .4-.3 .7-3.7 2.3-1.3 .1-1 2-3.1 -.8-1.5 3.8-2.4 -1.4-2.1 .3-1.4 1.6-.2 1.8 .1 -.3-6.1 -.6-.4 -.2-.8 2.6-3.7 -2.1-3.1 .8-1.2 3.6-2.2 .2-.6 -4.8-3.2 0-.4 2.2-.7 1.6-4.6 1.3-.8 -.9-3.1 -.6-.8 -.8-.4 0-4.8 .4-.3 3.7-.6 .5-3.4 -2.8-1.4 .4-1.4 2.8-2.8 -1-3 -1.4-.5 -.8-1.1 .3-2.4 .7-1 1.3-.8 1-4.4 -1.8-2 -3.1 .2 -1.7-1.9 .6-2.9 -2.9-2.6 -.4-1.8 -.1-4.6 -.4-.1 -1-4.5 .2-.3 -2.9-2.2 .4-2.2 -.2-.8 -2.6-1.6 -1-1.7 -4.7-.7 -.7-.6 2-4.3 -.2-.3 -6.5 .8 -.6-.5 -1.1 .2 -2.5-2.5 -.5-.1 -2-2.4 -2.3 .1 -.3 .3 -3.6 .3 -.7-.6 -2.6 .2 -1-1.8 -2.1-1.3 -1.2 2.4 -1.4 .9 -2.1-1.3 -.8 0 -2.1-3.3 .1-.6 -3.5-1.5 -2.5 .8 -1.9-.4 -2.4-2.2 -1-.2 -1.4 1.1 -3.7-1.4 -.1-.7 -1.6-1.8 -2.1-.3 -2.1 .9 -1.1-1.6 -4.3-.5 -.1-.4 -3 .5 -2 1 -.7-3.2 -1.8-.9 -1.8-.3 -1.3 3.3 -1.5 .4 -3.6-2.4 -1.8 .6 -.7 .5 -4.7-.1 -.9 1.6 1.6 3.2 -.4 2.4 -5.1-2 -1.2 .5 -1.2 1.5 -2.5 .8 -.3 1.2 -1.4 2.6 -2.6 .3 -.6 .5 -1.2 2.4 -4.4-1.5 -.2 .2 -.9 3.8 -1.4 .8z"/>
<path fill="#fa8560" d="M318.8 643.8l0 1.5 -1.7 2.8 2.3 2.8 -1.7 3.1 -.3 .1 -2.6 3.5 4.2 4.7 -.5 .4 -.4 1.4 -5.1 3.8 .1 .4 3.8 1.4 .1 3.5 -3.5 1.4 .1 1.3 -2.1 2.8 .1 1.3 4.5 .4 .6 1.1 -2 3.1 0 .9 3.6 2.4 -2.3 2.1 -2 .8 -.3 3.7 3.4 1.6 -1.4 3.7 -1 .4 -2.1 4 .1 .8 -1.5 1.5 1.7 4.1 -.5 1.2 .1 .4 3.3 2 -1.9 3.7 1.2 1 -.1 1.6 .8 2.7 3.1-.1 .2 2.2 -.3 1.9 .9 1.6 -2.5 3.3 1.2 2.4 -.4 1.4 1.9 2.9 1.4 1.6 -.3 .4 -4.4 1.2 -.2 .3 .7 4.4 -.5 .7 -1.7 .3 -2.1 2.5 1.7 2.2 .3 1 2.9 1.5 -.5 2.2 -.6 .6 -.1 1.5 2.4 3.4 -.5 .8 .7 3.7 1.3 .5 1.5 3.5 4.9-2.7 .8 .5 -2.5 4.1 1.4 1.6 -.4 1.7 -.6 1.1 -3.5-1.7 -1.1 .8 -1.6 3.6 .3 .4 -1 3.2 2.6 2.1 2.2-2.1 2.8 1.2 .7-.3 1.2-3.1 -.1-.4 3.2-1.6 1 0 .6 .4 3.9 .7 1.4-.9 3.1 2.1 2.6-2.2 3.1 1 .6-3.3 1.2-1.3 1.7 1.8 2.1 .7 1.6-.9 2.5 .5 .7-.4 .9-2.8 1.2-.3 .6 .1 2.1-.5 2.8 .8 .5-.2 1.1-2 .4-.1 4.1 1.4 1.5-1.2 -1-3.8 2-1.4 3.9 2.2 .4-.3 .7-3.7 2.3-1.3 .1-1 2-3.1 -.8-1.5 3.8-2.4 -1.4-2.1 .3-1.4 1.6-.2 1.8 .1 -.3-6.1 -.6-.4 -.2-.8 2.6-3.7 -2.1-3.1 .8-1.2 3.6-2.2 .2-.6 -4.8-3.2 0-.4 2.2-.7 1.6-4.6 1.3-.8 -.9-3.1 -.6-.8 -.8-.4 0-4.8 .4-.3 3.7-.6 .5-3.4 -2.8-1.4 .4-1.4 2.8-2.8 -1-3 -1.4-.5 -.8-1.1 .3-2.4 .7-1 1.3-.8 1-4.4 -1.8-2 -3.1 .2 -1.7-1.9 .6-2.9 -2.6-2.5 -.3-.1 -.4-1.8 -.1-4.6 -.4-.1 -1-4.5 .2-.3 -2.9-2.2 .4-2.2 -.2-.8 -2.6-1.6 -1-1.7 -4.7-.7 -.7-.6 2-4.3 -.2-.3 -6.5 .8 -.6-.5 -1.1 .2 -2.5-2.5 -.5-.1 -2-2.4 -2.3 .1 -.3 .3 -3.6 .3 -.7-.6 -2.6 .2 -1-1.8 -2.1-1.3 -1.2 2.4 -1.4 .9 -2.1-1.3 -.8 0 -2.1-3.3 .1-.6 -3.5-1.5 -2.3 .6 -.2 .2 -1.9-.4 -2.4-2.2 -1-.2 -1.4 1.1 -3.7-1.4 -.1-.7 -1.6-1.8 -2.1-.3 -2.1 1z"/>
<path fill="none" stroke="#fff" stroke-opacity=".7" stroke-width=".5" d="M324.4 715l-3.1 3.3 -2-1.3 -4.1 1.9 4.8 3 1.6-1.1 1.5 .9 .3 3.8 -4.2-.2 -.3-2.2 1.1-1.2M324.4 715l-.1-.4 -4-2.8 -2.1 1.5 -.3 .5 1.4 3.2M324.4 715l2 1.2 4.4-2.6 -.3-1.9 -1-.1 -3.5-2.6 -1.1 1.3 .2 3 4.4-1.7M330.5 711.7l1.1-1.5 -.3-2.5 -1.5-2.2 -3.6 1.8 -2.3-1.2 3.8-4 2.1 2.6 0 .8M287.2 715.4l2-1.2 1 .2 .2 1.8 -1.4 3.2 -.4-.2 -1.4-3.8 -1.8-.3 -.5-3.3 -2.6-.9 -1.2 1.1 2.3 4.7 2-1.6M289.2 714.2l-1.5-4.5 -2.8 2.1M321.3 718.3l.3 2.5M317.9 713.8l-2 .4 -3.4-2.1 -2.2 4.3 -3.2-3.5 .4-1.9 5 .8 .4-1.2 -1.7-4.1 -2.9 0 -1.3 2.3 0 1.1 .5 1.1M289 719.4l1.5 1.5 1.2-.1 1.1-2.9 1.2-1.5 3.5 2.1 -1.9 3.6 -1 .6 -2.9-1.9M288.6 719.2l-4.2 .6 -1.2-2.9 .2-.2M292.2 733.1l4.1-.2 .6 3.5 -4.5 1.1 -1-1.2 .8-3.2 -2.3-2.4 -.2-1.2 .7-.4 .3-3.1 3.9-3 0-.3M333.1 674.6l.7-4.5 -4.3 1.1 -.7 2.1 .5 .7 3 1.4 .8-.8 4.9-.5 -1.7-4.3 -1.5-.5 -1 .8M335.9 663.6l-3-2.7 .5-2.4 .9-.3 4.4 .7 -.6 3.9 -2.2 .8 -.6 1.2 -1.4 2.1 .9 2.4M325.6 673.5l3.2-.2M325.6 673.5l-2.2-1.9 0-.8 -3.2-2.4 1.9-2.8 3.4 .5 .2 1.4 -2.3 3.3M325.6 673.5l-.9 2.6 3.1 2.1 .2 0 1.3-4.2M388.3 737.7l-1.8-4.4 .9-1.6M386 720.4l-1.4-4 -1.6-1.2 -3 3.6 -.1 .8 .6 1 3.6 .8 -.9 2.7 -2.9 .4 -1-.2 1.2-3.7M386 720.4l-1.9 1M386 720.4l1.9 .8 -2.5 6.4 .1 .8 .4 .2 2.5-1.5 -.1-6 -.4 .1M385.8 739.3l-1.4 4.3 2.6 2.1M385.8 739.3l1.8-.4M385.8 739.3l-.8-.5 -4 1.6 .3 2.4 .8 .7 2.3 .1M342.5 762.7l-2.9 1.4 -.3 1.4 .5 2 5.1-3.1 -2.4-1.7 .1-1.4 3.3-1.6 1.9 3.4 2.7-2.6 2.8 .9 1.2-.4 .4-.8 -.3-2.6 -4.1-.2 -.5 .3 .5 2.8M385 738.8l-1.4-2.3 -4 .9 -.3 .7 -1.8 .7 -3.7-2.1 -.9 2.3 0 1.1 3.8 .5 .8-1.8M330.8 713.6l1 1.4 -.5 1.6 -2.1 1.2 1.7 3.1 1.9-1.1 -1.5-3.2M331.8 715l3.2 .3 .4 .6 .1 4.2 -2.7-.3M326.4 716.2l1 1.7 -.4 1.3 -1.7 2.3 -2.2 .2M331.4 724.7l-1.2-1.9 -3.1 .2 -1.8-1.5M331.4 724.7l3.1 .7 -.4 3.4 2.9 1.7 3.3-1.8 -1.6-3.1 -3-1 -1.2 .8M331.4 724.7l-2.8 3.1 3.5 2.7 -.2 1.9 -.6 .5 -4.5-2 .1-1.1 1.5-2 .2 0M265.3 745.2l.4-2 -3.1-3 -.3 .1 -1.7 1.9 .8 3.7 3.9-.7 1.5 1.9 3.3-2.2 .8 1.2 -2 3.1 -2-1.6 -.1-.5M270.7 742.6l-1.8-1 -.6-3 -2.5 .5 .6 3.7 2.5-1.2M270.7 742.6l2.2-.5 1.3 6.1 3.8-2.7 -.2-1.5 -4.6-2.1 -.3 .2M270.7 742.6l-.6 2.3M274.2 748.2l0 0 -.2 1 5 2.1 .1 .2 -3 3.2 -1 0 -.5-.6 -1.5-3.9 .9-1M273.2 741.9l.9-2.9 -.5-.7 -4.7-1.2 -.6 1.5M289 766.7l3.2-.7 -.8 4.2 -2.8-.8 .4-2.7 -1-1 -.7-3.5 1.4-.9 4.5 3.6 -.1 .7 -.9 .4M288 765.7l-3.5 1.5 -1.3-3.7 -1.5 .2 -1.7 .8 2.1 4.4 2.4-1.7 0 0M278 745.5l1.9 1.2 -.9 4.6M277.8 744l1.9-3.2 -.2-1 -5.1-.8 -.3 0M287.7 709.7l.2-.3 1.3-.3 3.6 4.4 -2.6 .9M256.4 738.3l.3 3.9 3.7 0 -2.8-4.7 -1.1 .5 -.1 .3 -3.4 .5 -2.6-1.8M253 738.8l-.5 3.5M290.4 716.2l2.4 1.7M293.7 713.5l-.9 0M293.7 713.5l.3 2.9M293.7 713.5l1.5-1.2 4 3.5 -.4 2 2.1 1.6 .4 2.9 1.6 .5 1.3 2.7 -.1 .2 -4.2 1.8 -.2-.2 .6-4.3 1-.7M286.7 699l.5-.2 3.2 1.7 .6 1.1 .2 1.9 .3 .4 -1.4 4.7 -.9 .5M286.7 699l-.7 1.2 -.6 1.5 .7 2.2 -2 2.5 0 .4 3.8 2.6 -.1-4.9 -1.7-.6M286.7 699l-5.1-2.6 4.2-4 1 .7 .5 5.3 -.1 .4M296.2 690.2l1.6 3.8 -1.2 1.9 -2.8-.1 -.1-.2 -.2-3.9 -1.9-1.3 -3.2 2.6 3.3 2.3 2 .3M296.2 690.2l0 0 -2.7 1.5M296.2 690.2l4-.7 .4 .4 .3 2.9 .8 .7 3.8-2 1.4 2 -1.9 3.5 .7 .7 5.1-.6 1-2 -3.2-1.9 -1.7 .3M311.6 680l-.1-1.3 2.1-2.8 -.1-1.3 3.5-1.4 1.3 1 2.9-1.9 -3.5-3.1 -.8 .4 .1 3.6M311.6 680l4.6 .4 .3-2 2.5-2.1 1.5 .6 .4 2.7 -2.6 2.2 -1.5-.3 -.6-1.1M311.6 680l-.9 1.4 -1.5 .3 -.3 4.9 1.3 .1 1.7-3.7 -1.2-1.6M318.9 727.2l-5.1-.6 -.6-.5 -.2-.3 0-.1 2.9-2.5 3-.1M318.9 727.2l.3-1.9M318.9 727.2l.8 1.6 2.3 .1 1.1 2.9 -1.1 .7 -3.7-1.7 1.4-2M315.2 718.9l0 0 -1.2-1 1.9-3.7M315.9 723.2l-.9-2.7 .2-1.6M323.4 725.5l.3 .8 3.2 0 .2-3.3M312.8 705l-.1-.8 2-4 1-.3 2.2 2.7 -1.4 3 .8 1.3 .7 .3 .6 .2 3.8-1.5 .2-.2 0-.6 -3.6-2.7 -1.1 .2M312.8 705l3.7 .6M312.8 705l-1.6 1.5M312.7 704.2l-1.6-2.1 .9-2.7 -.9-1.1 -2.9 3.2 2.9 .6M290.5 720.9l-1.8 2.2 2 2.9M294.6 723l.7 2.4 -1.8 3.2 1.7 1.7 3.7-3.2 -3.6-1.7M285.5 724.7l-1.4-2.3 -.1-1.2 .4-1.4M285.5 724.7l0 0 3.2-1.6M285.5 724.7l-1.3 1 -4.2 .8 -1.8-.9 -.7-.9 .2-.7 6.4-1.6M313 725.8l-4.3 4.3 1.2 1.5 1.5-.2 1.8-5.3M313 725.7l-2.3-1.5 .7-1.7 3.6-2M308.7 730.1l-1.2-.7 -3.4 2.7 -.6-.5 -.8-1.4 2.2-3 2.4 1.2 .2 1M309.5 724.6l-2.3-.4 -2.2-2.6 -2.1 1.2M309.5 724.6l-2.2 3.8M309.5 724.6l.8-.4 .4 0M290.4 729.1l3.1-.5M285.5 724.7l2.8 4.3 1.4 .5M305 721.6l.6-1.4 2.7 .6 2-4.1 0 0 -5.5 .9 0 0 .8 2.6M307.2 724.2l-3 1.3M300.2 728.7l-.3-1.2M300.2 728.7l2.5 1.5M300.2 728.7l-2.2 3.2 2.7 1 2.8-1.3M300.9 719.4l3.9-1.8M298.8 717.8l-1.3 .7M302.7 715.2l-2.2-.3 .3-4.4 2.2 1 .7 1.5 -1 2.2 2 1.9 1.5-3.6 -2.5-.5M318.2 713.3l-1.2-1.8 -2.1-1.6 -2 .7M324.3 714.6l.8-1.3M320.3 711.8l.1-.4 2.2-1.7 2.3 .6M320.4 711.4l-1.8-4M331.6 710.2l4.3 .8 1-2 -.3-2.2 -.7-.5 -4.6 1.4M318.3 674.2l.7 2.1M323.4 671.6l-.8 .4 -1.4 .3M322.6 672l-1.2 4.5 2.5 .2 .8-.6M317.7 669.2l.5-.5 2-.3M335.3 664.8l3.9 2.3 -.5 1.4 2.9 1.5 1.5-.9 1.1-2 -2.5-2.2 -1.3 .1 -1.2 2.1M329.5 671.2l-.7-1.3 2.6-3.8 .8 .1 .6-5.2 -2.2 .8 -1.8 2.5 2.6 1.8M333.9 666.9l-1.7-.7M332.3 675.4l.7 2.7 -.6 .8 -.7 .3 -1.7 5.6 2 .1 2.1-.4 .4-.9 -2.1-4.7M328 678.2l2.2 .9 1.5 .1M330.2 679.1l-2.5 4.4 -1.5-2.9 -1.9-.3 -1.1 .5 -.9 3.5 3.6 1.2 2-1.3 -.2-.7M379.3 724.3l-.9 .5 -2.7-1.9 -.3-2.2 4.5-1.1M382.1 743.5l-.8 3.5 2.7 1.9 3-2.1 .3-.3M300.1 767.6l-2.9-1.6 -2.3 1.4 .6 2.1 2 .5 2.6-2.4 .6-.3 2.9 1 .1 1.2 -3.8 3.5 -.5 .1 -1.9-3.1M319.7 762.2l-.8 .4 -2.3-3.4 0-1.5 .6-.6 1.2 .6 2.5 2.6 -1.2 1.9 3.8 1.6 1-.4 0-2.4 -.1-2.6 -3.5 1.9M327.6 768.8l-.8-.5 -.4-.9 -5.2-.4 -.8 .6 1.6 3.5 4.8-2.8M327.6 768.8l-2.5 4.2 1.4 1.6 -.4 1.8 4 .1 1 3M327.6 768.8l1.5 .5 2.7-4.4 1.8 .1 1.1 3.2 -4.8 2.4 -.8-1.3M355.4 734.7l2.9 .2 1.1-.8 -.7-2.9 -.1-.1 -1.4-3.5 -3.5 1.9 .7 2 .2 .1 4-.5M355.4 734.7l-.8-3.1M355.4 734.7l-1.5 1.8 -1.8-.3 -1-2.6 3.3-2.1M347.9 737.8l2.2 .6 .8 4.6 -1.4 1 -2.7-1.2 -.2-1 1.3-4 -.8-.7 .4-2.7 -3.6-1.3 -1.5 1.7 0 .9 3.7 1.6 1-.2M370.8 745.9l-.1-.1 -1.9 1.3 .9 3.1 2.5-.5 -1.4-3.8 4.4 2.6 .2-4.9 -3.8-.4 -.2 .1 -.7 2.5M369 763l-2.3-1.3 -.5-2.2 -1.4-1.2 -2.1 1 -.8 1.9 2.7 2.8 2.1-2.3M369 763l2.9-1.5 .4-4.1 1.4 .9 4.8 .1 .4-.4 -5.5-3.8 -.1 0 -1.2 2.1 -.1 .5 .3 .6M369 763l.6 1.8 -.5 1.9 -3.7 0 -1.3-1.8 .5-.9M368.8 747.1l-2.5 .2 -2 3.3 .3 .8 -3.8 3.8 3.9 2.5 1.1-3.4 .1-1.3 -1.3-1.6M346.7 754.8l3-2.9 0 0 2.3 1.6 -1.5 3.9M346.7 754.8l.2 1.7 3.1 1.2M346.7 754.8l-2-1.4 -3.4-.1 -.7 .5 1.2 3.8 -.8 1.3 -4.1 1 0 0 2.3-6.2 1.4 .1M352 753.5l1.3 .1 1.4 .7 .3 2.4 -.4 .9M346.9 756.5l-.8 .9 -.2 2.3M344.9 764.4l1.6 .6 -.8 1.9 2.8 2.9 -.2-4.8 -.8-.4 -1 .4M339.8 767.5l.1 1.4 .1 .2 -1.1 3.1 -2.8 1.2 -1.9-.5 -1.4 .5 .6 2.5 4.2 1.9 -1.5-4.4M339.9 768.9l-4.4 0 -1.3 4M347.8 763.1l-.3 1.5M333.8 764.8l5.5 .7M333.8 764.8l1.9-4.1 .3-.8 -2.4-2 -.2 0 -1.3 .8 -1 3.5 4.6-1.5M333.8 764.8l-.2 .2M339.6 764.1l-2.7-4.2M346.6 748.4l3.1 3.5M346.6 748.4l2.8-3.3 2.8 3.6 -2.5 3.2M346.6 748.4l-.6 .1 -.7 .9 -.6 4M341.3 753.3l.5-3.1 3.5-.8M313.8 726.6l2.4 5.2 -2.5 .9 -2.3-1.3M330.7 754.5l1.3-2 4.8 0 -3.2 5.4M330.7 754.5l2.7 3.4M330.7 754.5l-.8 0 -3.1-3.4 0 0 2.5-1.5 2.2 .5 .5 2.4M319.8 753.3l.1-.9 -2.1-2.5 -1.2-2.5 -1.7 .3 -2 2.5 -1.9 .3 1.3 4.6 2.6-1.8 -.4-1 -1.6-2.1M319.8 753.3l-2 1.5 -2.9-1.5M319.8 753.3l2.9 2.1 3.4-3.8 .2 5.8 -.3 .5 -1.5 .4 -.4-.5 -1.4-2.4M367.7 740.7l3.7 2.6M367.7 740.7l-.2-.3 -3.1 .2 -.1-.1 -1.9-3.4 .2-1.6 .4-.3 2.6 .7 2.3 3.2 -.4 1.3M367.7 740.7l-2 5.6 -1.3-.9 0-4.8M371.1 728.4l-1.7-.4 -1.9-3.9 3.5-1.2 1.9 1.8 2.8-1.8M371.1 728.4l.6-.1 .9-.8 .3-2.8M371.1 728.4l-1.2 4.8 1.9 1.9 -2.8 2.3 -1.6-2.6 .7-1.6 1.8 0M365.9 731.3l.3-1.5 3.2-1.8M365.9 731.3l-1.6 1.2 -3.3-2.9 -1.3 1 4 2.9 .6-1M365.9 731.3l2.2 1.9M378.4 724.8l-.6 3.2 -5.2-.5M387.8 694.5l-2.7-5 .2-.6 3.3 .4M387.8 694.5l0 0 2.6-3.2M387.8 694.5l-.6 .7 -1.9 .3 -2.2 3.1 2 2.3 .3 .1 2.4-1.2 .1-3.4 -.7-1.2M330.2 722.8l.3-1.4 -3.5-2.2M335.5 720.1l.4 .4 -.2 4.1M335.9 720.5l1.4-.3 4.1 2.8 -2.7 2.6M326.9 726.3l1.5 1.5M323.7 726.3l-1 2.1 -.7 .5M322.7 728.4l4.2 1.4M354.7 720.4l0 .2 -2.1 4.1 -1.2 .4 -1.1-1.1 -.2-4.4 2.2-1.3 2.4 2.1 2.2-2.9 -.3-.9 -1.7-1 -1.3-.1 -1.3 2.8M351.4 725.1l-.2 2 2.5 2.4M344 728.8l-1.1-5.5 1.2-.3 1.4-2.3 3.6 3.3 -2.2 .5 -2.8-1.5M344 728.8l2.9-4.3M344 728.8l0 .1 -3.4-.1 -.5 4.3 -3.1-1.6 -1 2.4 .7 1.5 3.4-2.3 0 0M265.7 743.2l.7-.4M263.9 738.9l-1.3 1.3M263.9 738.9l1.9 .2M263.9 738.9l.3-2.5 -2.8-1.5 2.2-2.2 1.4 .5 .8 2.1 -1.6 1.1M262.3 740.3l-3.2-3.7 -1.5 .9M268.9 737.1l-.4-1.3 -2.7-.5M295.5 769.5l-2.2 2.3 -1.9-1.6M299.4 773.1l-.5 1.3 1.6 2.9 4 .3 1.5-2.2 .1-.2 -6.2-2.2M298.9 774.4l-2.3 .7 -3.4-2.6 .1-.7M297.2 766l.8-2.8 -3.9 .4 -.9 1.3M293.1 765.6l1.8 1.8M288.6 769.4l-1.3 1.4 -.3 .7 -1.5 1.1 -.7 3.3M282.1 769.1l2.2 2.7 1.2 .8M282.1 769.1l0-.2M282.1 769.1l-2.5 1.2M284.3 771.8l-3.3 1.1M287.3 770.8l-2.8-3.6M287 771.5l2.7 1.9 -.5 2.7M287.3 762.2l-2-.4 -2.1 1.7M285.3 761.8l-1.3-2.5 2.2-2.2 3.1 1.7 -.4 2.1 -.2 .4M307.5 752.8l1.6-.6 2.4 4.3 .8-1.4M307.5 752.8l2.9 5.2 -5.1-.4 1.2 4.6 3-.1 1.4-1.5 -.3-2.6 -.2 0M307.5 752.8l-.7 0 -2.5 3.6 -2.1-1.7 -1.2 .1 -3.3 2.6 0 .9 6.7-1.6 -.1-.3M309.1 752.2l1.8-1.7 .1 0M314.9 747.7l-2.8-2.7 .7-2.6 3.6-.1 .3-.2 -.7-2.8 4-.6 -1.9-2.8 -2.9 1.7 .8 1.7M310.9 750.5l-1.9-2.6 1.9-2.4 1.2-.5M274.6 754.1l-3.9 1.2 1.4 2.5 -2.3 1.8 -2.6-2.3 .3-3 1.2-.6 2 1.6M275.1 754.7l-1.7 3.3 -1.3-.2M276.1 754.7l2.5 2.7 0 0 -3.2 1.7 -1.4-.4 -.6-.7M269.7 761.5l.1-1.9M251.5 698.8l1.1-.6 3.6 1 2.3-1.7 -.2-2 -1-.8 -4.6 2.4 -.1 1.1M291 701.6l3.7-1.3 -1-4.3 -3.3 4.5M282.1 709l2-2.2M282.1 709l.2 1.9M282.1 709l-2-1 .1-2.5 -3.7 0 .9 3.3 2.7-.8M281.3 704.2l-1.1 1.3M281.3 704.2l2.8 2.2M281.3 704.2l-.2-1.5 4.3-1M281.1 712l-3.6 1 -.2-3.9 .1-.3M287.9 709.4l0 0M290.1 708.6l4.2 .6 1.6 1.1 .3-.2 -2-6 -1.7 .2 1.8 4.9M291.5 703.9l1 .4M291.2 703.5l-3.4 1M272.9 708.2l.2 .5 4.2 .4M272.9 708.2l1.2-4.6 .7-.1 1.7 2M272.9 708.2l-4.4-.9 1.2 3.2 -3.6 1 .4 1.7 3.5 .6 -3.8 3.9 -.9-2.7 1.2-1.8M274.1 703.6l-1.5-.6 -2.3-4 5-.6 .3-2.5 4.7 1.1 -.3 1.4 -4.2 .8 -.6 4 4.8-1.8 .2-1.8 -.2-1.2M274.8 703.5l.4-.3M256.7 742.2l-1.5 1.8M261.4 745.9l-.3 .4 -5.8-.9M260.4 742.2l.2 0M297.5 704.6l-.3 5 3.2 .3 1.6-2.2 .1-1.2 -1.8-1.9 -2.8 0 -.8-1.1 -2.5 .6M296.7 703.5l.3-2 -2.3-1.2M285.8 692.4l-.2-.6 -2.3-.8 -3.8 1.7 1.2 3.8 .9-.1M280.7 696.5l-.4 .5M296.2 690.2l-.7-2.2 -1.6-.8 -2.8 1.3 .5 1.9M297.8 694l3.1-1.2M325.5 697.3l-1.5-2.8 -2.9 .9 -2.4-.4 -1.5 1 3.5 4.3 2.4-.3 -2-4.6M325.5 697.3l-2 2.9 -.4-.2M325.5 697.3l2.7 .1 1 .9 -1.5 3.8 -3.5-.9 -.7-1M324 694.5l.3-.5 1-.7 3 1.1 .1 .2 -.2 2.8M324.3 694l-3.5-4.4 4.4-.6 1 1.2 -.9 3.1M314.7 684.6l.1 .8 -2.5 2.3 .2 1.4 1.6 1.7 1.9-.8 2.3-2.1 -3.5-2.5M314.7 684.6l-2.8-1.6M314.7 684.6l2.1-3.1M317.2 696l-.1 .1 -1.4 3.8M318.7 695l.1-.4 1.9-5.1 .1 .1M313.8 694.5l3.3 1.6M313.8 694.5l-1.3 .4 -.7 .2M313.8 694.5l.3-3.7M314.7 700.2l-2.7-.8M307.9 681.4l-1.6-1.3 -2.8 3.5 1.8 2.4 0 .1 -5.3 .8 -1-2.1 1.6-1.9 .3 0 2.6 .7M307.9 681.4l-2.6 4.6M307.9 681.4l1.3 .3M316.9 669.6l-3.8-1.3 -1.9 1.9 -.6 2.1 2.9 2.3M320.7 700.3l-1.7 2.1M324.2 701.2l-1.6 3.9M302.1 706.5l3.4-3.2 -2.4-1 -2.2 .9 -.6 1.4M300.9 703.2l-1.7-3.1 2.8 .3 2.7-3.4 -2.1-1 -4 2.1 0 1.7 .6 .3M310.8 697.1l.3 1.2M283.2 716.9l-3.9 .3 -1.1 3 -.4 .5 -2.4-1 -.7-1 .5-4.8 1.9-.3 2.2 3.6M309.9 731.6l-1.7 3.6 1.3 .8 3.8-1.8 1.1 3.3 .8 .1M318.4 734.5l-1.2-2.4 -1-.3M318.4 734.5l1.5-.1 2.1-1.9M318.4 734.5l-.3 1.4M314.4 737.5l-2.7 1.5 -2.2-3M313.3 734.2l.4-1.5M317.2 732.1l1.1-1.3M321.4 740.4l.8-.4 1.5-4.1 -3.8-1.5M321.4 740.4l-1.4-1.7M321.4 740.4l-.3 .4 -4.4 1.3M295.6 722.1l4.7 .9M304.1 732.1l1 2.9 -4.5 .3 .1-2.4M304.9 727.2l-.8-1.5M299.7 727.3l-.8-.2M295.2 730.3l1.2 2.5 1.6-.9M299.2 715.8l1.3-.9M297.2 709.6l-1 .5M295.2 712.3l.7-2M302 707.7l5 1.1M303 711.5l4-1.6M300.4 709.9l.4 .6M312.5 712.1l0-.3M306.2 713.5l.9-.6M310.3 716.4l0 .3M304.7 717.1l.1 .5M308.3 706.5l-2.1-3.3 -.7 .1M322.6 709.7l-.2-3.8M314.9 709.9l2.4-3M317 711.5l1-4.3M326 709l.2-1.7M328.4 694.6l4.4-.5 .6 .9 .3 2.3 -1.2 .8 -.4 5 -2.3 1.6M332.1 703.1l2.9 .2 .3 .2 .6 2.8M327.7 702.1l0 0M329.2 698.3l3.3-.2M340.3 706.3l-1.6-.5 -2.1 1M340.3 706.3l.9 3 -4.3-.3M340.3 706.3l2.4-2.5 .2-1.2 -3.6-.7 -.7 .9 .1 3M356.7 705.7l.2-.4 3.9-3.6 -.9 4.7 3.4-.1 .1-2.3 -2.3-2.9 -.3 .6M356.7 705.7l1.7 1.6 1.5-.9M356.7 705.7l-.8 0 -3.8-3 1.4-1.7 2.2-1.7 1.1 .2 .1 5.8M343.4 652.9l-3.3 2.5 -1.2-1.4 -3.5 .5 -1.1 3.7M338.1 662.8l2.3 2.2M328.8 669.9l-3.1-2.4M321 661.1l2.5 .3 2 4.7 2.2-1.7 -1.3-4.7 -2.9 1.7M321 661.1l2.4-4.6 .9 .1 2.5 1.9 -.4 1.2M321 661.1l-1.3 .5 -.7 .7 -4.2-4.7 .1-.1 4.4 .7 .4 3.4M330 684.8l-.2 0 -.1 2 3.4 3.8 -.7 .9 -1.9-.4 -1.1-3.2 .3-1.1M329.8 684.8l-1.9-.6M344.3 686l.4-.7 3.3-.4 .7 3.2 -2.6 1.9 -1.8-4 -.6 .4 -1.9 2.2 .1 2.8 -2.9 1 -.9-2.5 1.5-2.1 2.2 .8M347.2 673.4l2.9 3.2 1.5-.8 4 1.2 -.3 .6 -3.6 1.8 -.8 .2 -.4-.4 -.4-2.6M347.2 673.4l.7-.8 3.6-.4 .1 3.6M347.2 673.4l-.7 .3 -3.4-4.6M336.3 669.8l2.4-1.3M338 674.1l.1 0 3.4-1.9 .1-2.2M338.1 674.1l.5 2.2 -2 2 -3.6-.2M386.5 733.3l-2.3 1.3 -.6 1.9M383.2 724.1l2.2 3.5M380.3 724.5l3.3 4.2 .3 0 -1.1 5.1 -3.5-1.1 -.3-2.3 0-.1 4.6-1.6M375.4 720.7l0 0 -.2-2.9 2.1-1.2 2.7 2.2M390.2 720.9l-1.9 .2M384.6 716.4l2.8-1 2.8 .7M377.3 716.6l.2-1.8 4.4-.7 -3.3-4 0 0 -1.6 4 .5 .7M383 715.2l-.3-.8 -.8-.3M381.3 747l-1.6 .6 -.5 1 -3.6 .9 -.3-.9 -.1-.1M330.1 776.5l1.5-3.4 -1.3-1.1 -3.8 2.6M332.2 779.5l1.2-3.6M325.6 779.2l2.4 1.8M325.6 779.2l-.1-1.7 .6-1.1M325.6 779.2l-2.6 1.5 .4 3M310.3 781.4l-.6-3.2 -3.7-2.8M353 773.6l-3.7-.8 -.1 0 -.3 .2 -.1 .1 -.1 2.9M353 773.6l1.1 3.9M353 773.6l2.9-1.4 2.3 2.7M348.8 773.1l-.7-.1 -5.4 2.4 .2-5.4 5.2 3M342.7 769.8l-2.7-.7M342.7 769.8l.2 .2M342.7 769.8l2.8-2.5 3.4 5.7M338.9 772.2l1.9 3.5 -2.6 2.9 -.1 1M340.8 775.7l1.8-.2 .1-.1M342.6 775.5l1.4 1.9 3.5-.2M338.2 778.6l-.6-.8M300.7 767.3l-1.1-5 -1.6 .9M309.6 765.9l0 .1 -1.5 .8 -.1 .1 -4.2 1.2 -.2 .2M309.6 765.9l-.1-3.8M309.6 765.9l4.5-2 .1-.3 -.5-1.3 2.9-3.1M318.4 757.7l5.7 .1M330.6 763.8l-1.6-.5 -.3-1.3 -4.2-1M330.6 763.8l.5-1.6M330.6 763.8l1.2 1.1M329 763.3l-2.9 1.3 -1.6-1.2M326.1 764.6l.3 2.8M323.5 763.8l-2.3 3.2M358.3 734.9l-1.2 4.7 1 .2 4.3-2.7M352.1 736.2l-1.9 2.2 5.8 1.8 .3-.4 -2.4-3.3M379.7 747.6l-1.6-2.2 -2.8 3.2M379.2 748.6l1.8 3.1 2.2-.4 1.6 1.7M375.6 749.5l-.6 1.8 -2.8-1.6M353.3 753.6l.5-3.9 3.8 .9 -1.7-4.5 -.7-.3 -2.5 2.9 1.1 1M354.7 754.3l3.4-2.8 1.9 3.6 -1.1 1.8 -3.9-.2M358.9 756.9l.5 2 -.7 1.2 -3.8 .1M344 728.9l.1 .1 -.2 4.1M343.1 744l.1-4.1 1.4-.3 2 2.2M343.1 744l3.7-1.2M343.1 744l-.3 .2 .7 2.1 -1.7 1.9 -1.4-.7 1.9-3.3 .5 0M346.1 757.4l-4.3 .2M342.6 761.3l-1.6-2.4M349.3 772.8l3.4-5.5 -1.2-1.2 1.8-4.7M352.7 767.3l.3 0 4.1-2.4 -2.6-3.9M351.5 766.1l-3.2-1.1M336 759.9l.9 0M332.1 758.7l-3.7 .6 .3 2.7M352.2 748.7l.5 0M349.5 744l-.1 1.1M313.7 762.3l-2.8-1.7M318.9 762.6l-.4 .8 -4.3 .2M322.2 740l3.3 .9 1.8-1.1 1.6 .3 1.9 2 -3.9 2.1 -.8-1.2 -.6-2.1M336.8 751l.1 1.5 -.1 0M336.8 751l-3.1-3.1 -2.2 2.2M336.8 751l1.7-2.1 .2-1.4 -.7-2.3 -1.2-.3 -3.1 2.6 0 .4M336.9 752.5l2.3 1.2M332.6 737.3l3.9 .2 .3-.4 4.8-.3 .4 2.3 -2.2 1.9 -3-1.5 -.3-2M332.6 737.3l-.7 4.9 3.5-.2 1.4-2.5M332.6 737.3l-1.2-.8 -.9-1.5 .8-2.1M319.9 752.4l2.4-2.3 0-2.7 -3.9-.9 -1.2 .2 -.8-4.4M322.3 750.1l3.8 1.3 .7-.3M317.8 749.9l-3.3 2.4M316.6 747.4l.6-.7M326.1 751.4l0 .2M329.9 754.5l-3.6 2.9M255.3 678l-.5-3M255.3 678l-3.2 1.6M255.3 678l1.2 .4 2-3 2.2 2 1.5-2 -2.1-2.6 -1.9 .6 .3 2M263.7 681.1l-.1-.7 2.9-4.1 1.8 2 -1.6 5.3 -.2 .1 -1.4-.8 -1.4-1.8 -5.5 2.5 1.8 3.3 0 .2 -.1 .5 -.1 .1 -6.2-.3 .1-.7 2.5-2.5 1.3-.6 .6-.1 .1 .1M269.5 657.6l1.8 1.4 1.3-.2 3 2.5 .1 .9 -2 1.6 -2.6-3.8 .2-1M269.4 674.7l4.7-1.7 .2 0 .2 .1 -1.6 4.6 -3.5-3 -1.5-.2 1.9-3.4 1.2-.7 3.1 2.6M379.3 665.8l-2 2 -.9 .4 -2.6-4.5 -.1-.3M366.2 729.8l-2.4-2.3 .2-2.9 -1.7-.4 -3.6 1.2 -1.1-.2 -.1-.2 .4-3.4 1.3-1.6 .9-.2 2.2 4.4M377.8 728l1.2 2.3M371.7 728.3l2.3 3.5 -.9 3.4 -1.3-.1M371.6 743.2l1.3-3.1M392.2 699.2l-4.3-2.8M354.5 691.2l1.9-1 1.3-2.5 -.2-.4 2.8-4.1 -.8-1 -3.3 .3 -.9 1 -.7 1.3 2.9 2.5M354.5 691.2l-.1-.1 -2.2-2.5 -1.6 .6 -1.9-1.1M354.5 691.2l.1 3.3 4.7-.5 .1-1.5 -3-2.3M358.4 707.3l.2 2.5 1.5 .8 -.7 4.4 -2.3-2.4 .3-2 1.2-.8M363.7 699.1l3.7 3.1 -.2 .8 -3.8 1M363.7 699.1l-2.6 1.9 0 .1M363.7 699.1l1-2.2 .2-.1 5.1 3.2 -2.6 2.2M371.3 698.9l-1.3 1.1 0 0M371.3 698.9l-.3-.8 -2.2-3.5 1.2-1.6 2.6 .6 -1.6 4.5M371.3 698.9l.4-.1 3.8 2.9 1.2-.5 2.9 .7 2-3.1 1.5-.2M327.4 717.9l1.8-.1M330.5 721.4l.4-.5M335 715.3l1-2.4 0-1.5 -.1-.4M335.4 715.9l4.5 0 .2-1.2 -4.1-1.8M323.7 735.9l1.7-1.2 -.3-1.4 -2-1.5M359.4 715l0 .1 -2.8 1.5M360.1 710.6l.3 0 2.8 2.3 -2.3 2.8 -1.5-.6M351.2 727.1l-2.6 2.7 .7 3 1.8 .8M354.7 720.6l3.2 1M352.6 724.7l4.9 .3M350.1 719.6l-2.4-1.5 .4-4.1 4.5 .1 1 1.4M350.3 724l-1.2 0M352.6 714.1l.6-3 .5-.7 3.7 .2M354.9 715.6l2.2-3M268.5 735.8l1.2-2.2 1.6-.7 2.3 3.3 0 2.1M303.8 768.1l.3-4.7 -2.9-1.9 -1.3 .2 -.3 .6M289.7 773.4l3.3-.7 .2-.2M300.5 777.3l-.2 .3 1.5 4.7M304.5 777.6l.2 2.5M288.9 760.9l5-.2 .2 2.9M280 764.5l-.7-.1 -.7-3.3 -2.5-.1 -.9 2 -.2 1.3 1.7 1.5 2.6-1.4M281.7 763.7l-1.2-5.1 1.7-.4 1.8 1.1M289.3 758.8l2.2-2.8 2.8 4 -.4 .7M311.5 756.5l-.2 .9 5.3 .3M311.3 757.4l-.7 .6M317.8 754.8l-.6 2.3M306.8 752.8l-1.9-3.2 1.5-2.1 2.6 .4M288.3 729l-1.5 .8 -3.1-1.5 -1 1.7 1.9 1.5 2.2-1.7M289.9 730.7l-1.9 3.5 -3.4-1.9 -1.9 2.6 3.5 1.2 1.8-1.9 0 0M279.7 740.8l2.5 1.5 3.6-2.6 -4.9-2.7 -1.4 2.8M291.4 736.3l-1.3-.2 -3.3 3.8 -.2-.2 -.4-3.6M296 750.9l-2.9 4 -1.3 .4 -1.6-4.7 .8-1.1 5 1.4 1.3-.5 -.9-2.7 -.9-1.1 -3.6 .3 -.4-3.7 -.3-.2 -3.3-1 -1.2 2.4 0 1 4.7 2.1 .5-.6M298.1 752.4l-1.6 3.6 -3.4-1.1M298.1 752.4l2.9 2.4M298.1 752.4l-.6-1.9 .5-.2 4.3 .8 -.1 3.6M279.1 751.5l1 .5 .8 .9 -2.3 4.5M279.9 746.7l1.6-.2 1.2-3 -.5-1.2M270.4 750.9l2.7-.7M270.4 750.9l-1.7 2.8M270.4 750.9l-1.5-1.7M274.2 748.2l-3.3-2.1M267.2 757.3l-2.7 2.1M267.5 754.3l-1.8-.7 -1.6-3 -3-.7M273.5 760.4l.5-1.7M273.5 760.4l-2.3 2.2 -.9-.2M273.5 760.4l1.7 2.6M265.7 753.6l-2.5 1.4M264.1 750.6l2.8-3M271.2 762.6l2.6 1.6 -3.6 4.2M253.2 713.1l-.2 .1M253.2 713.1l2.2-5 -1.7-2.8M253.2 713.1l.5 .2 3.5-.3 1.5-2.6 -1.3-2.1 -2-.2M281.1 702.7l-1.1-1.3M286 700.2l-5.8-.6M275.6 695.9l-.6-.8 4.2-2.7 0 0 .3 .3M275.3 698.4l.5 .8M272.1 721.5l-1.2-3.5 0-.1 3.8 .8M272.1 721.5l3.3-1.8M272.1 721.5l-.1 .2 -4 1.9 -.1 .3 6.6 1.8 .5-.4 -3-3.6M273.1 708.7l-.1 .4 1.2 4.7 -2.3 .6 -1.3-.7 -.7-3 3.1-1.6M277.5 713l-.4 .6M266.5 719l4.4-1M266.5 719l-.2-.1 -.1-.3 -3.6-1.3 -1.7 2.7 1.9 .8 3.5-1.9M266.5 719l1.5 4.6M270.9 717.9l1-3.5M265.7 687.3l.8-3.6M265.7 687.3l.8 1.7 2.8 .6 .3-.4 -.6-5.2 -1.7-.3 -.6-.1M265.7 687.3l-5.7-.2M265.1 682.9l-5.1 4M266.5 689l-2.6 3.1 2.4 2 2.1 .3 1.7 3.5 4-3.2 -.5-2.6 -3.5-.8 -1.7 3.1M256.4 731.8l3.1 3.6 -.4 1.2M256.4 731.8l-1.9 1 -.8 1.3 2.8 3.9M256.4 731.8l.4-1.3 1.3-.7 2.2-.1 .8 1.1 -.8 4.2 -.8 .4M260.3 735l1.1-.1M256.8 730.5l-2.6-3.5 4.2-2.2 -.3 5M248 722.2l2.5-.2 2.4-2.2 -1.1-2M253.7 734.1l-3.8 1.5M254.5 732.8l-3.3-3 -.9 .3M251.2 729.8l2.1-3.1 .9 .3M260.9 749.8l.2-3.5M262.3 705.5l0 0 -1.8-3.4 -4.1 .1 -.5 1.1 4.3 2.6 -2.8 2.4M262.3 705.5l-2.1 .4M262.3 705.5l.4 .4 -2.3 4.6 1.4 1.9 3.2-2.4 0-2.7 -2.3-1.4M248.4 693.4l4.2 1.1 2.2-2.5 2.5 2.7M281 684.2l-1.1-.2 -1 1 -.6 3.4 .6 .8 .3 3.2M281 684.2l.5 5 -2.6 0M281 684.2l1.7 .1 1 1.3 -1.2 4 -1-.4M286.8 693.1l1.6-.1M287.3 698.4l4.4-3.1M308.6 693.2l.7-2.4 1.2-.3 2 4.4M305.5 691.5l-.3-2.4 1.1-1.6 .5 .1 2.5 3.2M301.7 693.5l.9 2.5M296.6 695.9l2 2.2M293.7 696l.1-.2M297 701.5l1.6-1.7M303.1 702.3l-1.1-1.9M305 697l-.3 0M305.7 697.7l1.1 4.2 1.4-.4M306.8 701.9l-.6 1.3M328.3 694.4l.9-3 -2.8-1.2 -.2 0M310.5 690.5l2-1.4M310.2 686.7l2.1 1M306.8 687.6l2.1-1M318.8 694.6l-2.8-4.6M306.3 680.1l-.5-1.1 -.4 0 -4.3 3.5 1.5-4.2 2.8 .7M305.8 679l.5-1.1 2.7-1.2 2.5 2M313.6 675.9l2.9 2.5M322.6 705.7l1.3 .4M284 721.2l-5.8-1M277.7 724l.1-3.3M275.2 713.9l-1-.1M292.4 737.5l-.1 .7 -4.7 2.6 -.8-.9M321.1 740.8l.2 1.5 -2.9 4.2M314 717.9l-1.9-.1 -.7 4.7M333.7 697.3l2.2 .9 .2 .1 -1.1 5M349.4 702.1l-2.1 .5 -3.3-1 0-.6 -.8-2.2 -3.2-1.4 -2.2 1.3 1.5 3.2M349.4 702.1l1.8 .8 .9-.2M349.4 702.1l-.4-4.5 -1.3-.2 -2.7-2.3 -.2-.6 5.5 .1 .6 .9 -.9 1.2 -1 .9M354.6 694.5l-.5 .9 1.6 3.9M361.1 701l-2.5-1.6 -1.8 .1M358.6 699.4l1.3-4.5 -.6-.9M333.4 658.5l-2-1.4 -2.9 .4 -1.1 .8 3.2 3.5M332.9 660.9l-.1 .1M331.4 657.1l.3-2.7 -1-2 3.9-1.5 0 2.8 -2.9 .7M335.4 654.5l-.8-.8M338.7 658.9l.9-.6 .6-.9 -.1-2M338.9 654l-.3-1.4 2.8-3.1M346.1 690l-.2 1.5 3.4 .5 1.3-2.8M354.4 691.1l-4.7 1.4 -.4-.5M352.2 688.6l.8-3.3 -3.1-1.7 -.4 .1 -1.5 1.2M353 685.3l1.6-.5M349.9 683.6l1-4M346.3 658.3l-6.1-.9M346.3 658.3l0-.1 .1-4M346.3 658.3l.4 2.1 -1.4 1.3 -2.2 .9 -3.5-4.3M346.7 660.4l2.1 1.4 3.4-3.8 -1.5-1.1 -4.4 1.3M356.3 662.4l.2-.5 -2.4-2.3 -.4-1.2 1.1-1.5 4.5 1.6 .5 1.3 .1 .5 -.1 .1 -3.3 1.5M356.3 662.4l-3.8 1.7 -1.1 0 -1.2-1.1 -.6-.2 -.8-1M356.3 662.4l.5 3 -1.8 1.1 -1.6 2.5 .3 1.3 3.1-.7 2.1-2.7 -2.1-1.5M328.8 664.3l-1.1 .1M319.7 656l-1.9-1.9 1.7-3.2 -2.3-2.6 -2.8 2.9 1.8 2.3 1.2 .7 .4-.1M319.7 656l3.2 .2 -.8-5.6 -2.6 .3M319.7 656l-.4 2.2M318.2 668.7l-.1-4.6 .5-1.4 .4-.3 3.1 3.2M318.1 664.1l-5 3.8 0 .4M325.5 666.1l0 0M329.2 691.4l1.3-.3M326.4 690.2l3-2.3M343.7 686.4l-4.3-1.3 -.6 .9 -2.9 .6 -1.8-2.1M338.8 686l.8 1.8M339.4 685.1l0-2.4 -2.3-1 -2.6 1.9M344.7 685.3l-1.4-3.3 2.3-2.2 3.9 3.9M345.3 661.7l.6 4.5 1.6-.1 1.5 1.8 -1.2 3.2 -3.4-4 1.5-.9M343.1 662.6l-1.4 2.3M347.9 672.6l-.1-1.5M351.5 672.2l1.9-.6 1.7 2.2 .8 2.9 -.3 .3M346.5 673.7l-.7 .6 -.1 3.5 -4.9 .5 -1.1-1.5 6-2.5 .1 0M341.5 672.2l4.2 2.1M344.2 667.1l.2 0M321.4 676.5l-.9 .4M325.2 689l.7-3.5M320.8 684.9l-1.4 3 1.3 1.6M320.8 684.9l-2.5-3.1M320.8 684.9l1.5-.6M319.4 687.9l-1.1 0M356.9 717.5l2.3 2.5M360.5 719.5l1.1-1.9 -.7-1.9M360.5 719.5l-.4 .3M360.5 719.5l5.3 2.3 0 1.4 -1.8 1.4M361.6 717.6l1.6-.1 2.7 4.1 -.1 .2M391.2 725.9l-2.8 1.2M387.4 731.2l-1.5-2.6M387.4 715.4l.4-3 .2-.3 -2.9-2.6 -1.6 2.8 -.1 .9 4.4-.8M382.7 714.4l.7-1.2M379.6 707.2l-1 2.9M379.6 707.2l0-.1 1.2-1.1 0-.5 -1.2-3.6M379.6 707.2l3.9 5.1M371.9 761.5l.3 .2 3.8-.2 .2 .1 1.3-.8 1-2.4M387 746.8l-.6 6M384 748.9l-.8 2.4M382 759l-1.4-1.6 3.8-2.9M377.5 760.8l3.4 2.7M325.5 777.5l-3.4-1.7 -.6-3.8 .4-.5 3.2 1.5M321.9 771.5l.1-.4M331.6 773.1l1.2 .3M330.3 772l-.4-1.4M335.5 768.9l-.8-.7M321.5 772l-3.7 1 -2.3-3.7 -.3-.5 4-1.8 1.2 .6M322.1 775.8l-1.1 .7 -1.6 3.6 .2 .4 3.4 .2M344 777.4l-.2 2.2M324.4 758.4l.1-.1M328.4 759.3l-2.4-1.4M359.4 734.1l3.2 1.4M358.7 731.2l1-.6M350.1 738.4l.1 0M350.9 743l2.4-.1 2.6-2.5 .1-.2M353.3 742.9l1.9 2.9M358.1 751.5l.1-.4 -.6-.5M360.8 755.2l-.8-.1M359.4 764.9l.2-1.7 -.9-3.1M359.4 764.9l-.6 .2 -1.7-.2M359.4 764.9l1.8 .7 2.9-.7M364.7 757.7l.1 .6M369.7 750.2l-.1 1.3 3.7 2.7M369.6 751.5l-3.2 1.4 5.7 3.4M375 751.3l0 1 4.3 1.1 1.7-1.7M375 752.3l-1.6 1.9M365.9 753l.5-.1M365.8 754.3l5.2 2.8 1-.3M371 757.1l-4.8 2.4M368.4 738.5l.6-1.1M368.4 738.5l-.5 .6M368.4 738.5l4.5 .5M344.1 729l4.5 .8M349.3 732.8l-1.8 1.6M340.3 728.7l.3 .1M344.6 739.6l1.5-2.3M342 739.1l1.2 .8M340.1 733.1l2.3 1.7M336.8 737.1l-.1-1.7M341.6 736.8l.8-1.1M338.5 748.9l3 .9 .3 .4M338.7 747.5l1.7 0M349.2 772.8l-.7-3M345.5 767.3l.2-.4M358.8 765.1l-.9 4.8 2.8 .8 -1.3 3.9M353 767.3l3.1 3.7 1.8-1.1M314.1 763.9l.8 4.8 .3 .1M319.2 767l-.7-3.6M338 745.2l2.8-1.4 -1-2.8M340.8 743.8l1.5 .4M331.4 736.5l-2.5 3.6M326.8 751.1l-1-4.5 1.1-1 2.1 .9 .3 3.1M331.9 742.2l-.4 .2 .1 3.1 2.1 2M336.8 744.9l-1.4-2.9M334.1 728.8l-2 1.7M336 733.9l-4.1-1.5M337 731.5l0-1M268.1 658.5l-1.9 4.3 -1.6 .3M303 647l-2.3 .1 -1.9 2.6 2.1 2.6 3.5-1.5 -1.4-3.8 1.2-1.1 3.6 3.4 0-5.1 -2.7 .2 -.9 1.5M256.5 678.4l1.4 1.3 2.7-1.5 .1-.8M257.9 679.7l.2 3.8M268.3 678.3l1.9 .8 -2.9 4.6M302.6 678.3l-1.5-1.1 -1.2 1 -1 1.4 1.7 3.3M301.1 682.5l-.2 .4M279.1 681.5l-1.1-.8 -.5-4 1.2-2.8 1.7 1.4 .9 3.4 -2.2 2.8 .8 2.5M274.3 673l-.3-3.7 -1.1-2.8 -.7-.3 -.9 .1 -.3 4.1M369.6 662.3l2.5 .6 .8-.2M369.6 662.3l-1.3-3.3M369.6 662.3l-2.4 2.6 -1.7 .2 -1.1 1.4 -3.3 .6 -.2-.1 -.5-5.5 4.5 2.1 .6 1.5M376.4 668.2l-1.7 1.5 2.7 4.1 2.2 .1 .7-2.2 -3-3.9M374.7 669.7l-.7 0 -.9-1.2 -1.9-1.7 -1.8 0 -1.1 3.3 4.6 .5 1.1-.9M377.4 673.8l-.4 .6 .9 4.3 3.4-1 .2-.4 -.8-2.5 -1.1-.9M374 731.8l5-1.4M373.1 735.2l.3 .2 .4 1.3M373.4 735.4l5.5-1.7 .7 3.7M375.4 743.6l1.2-.3 1.2 .5 .3 1.6M379.3 738.1l1.7 2.3M381.3 742.8l-3.5 1M376.6 743.3l.1-2.7M364.7 696.9l-2-1.8 -2.8-.2M364.9 696.8l2-1.9 1.9-.3M363.1 684.5l-.6 2.7 2.8 2.1 -1 2.4 -.9 .4 -2.4-1.3 -.1-2.4 1.6-1.2M363.1 684.5l1.5-.9 2.7 1.1 -.1 4.3 -1.9 .3M363.1 684.5l-2.8-1.3M360.5 678.5l-1.5-1.6 -3.1-.2M360.5 678.5l-1 3.7M360.5 678.5l2.9 .2 1.4-1.4 -2.4-4.3 -.5-.3 -.4 0 -.4-.6 -1.9-.3 -4.1 2M381.6 698.8l-2.6-2.6 -.2 .1 -4-.5 -.6 1.2 2.4 1.9 2.2-2.6M379 696.2l.4-2.5 -4.1-1.8 3.5-2.9 1.3 .2 .6 2 -.7 2 -.6 .5M360.4 710.6l3.7-3.1 -.8-1.2M363.2 712.9l1.7 0 .3-.2 .7-2.7 -1.1-2.2 -.7-.3M366.1 693.1l.8 1.8M366.1 693.1l2.1-3.5 1.4 .4 .4 3M366.1 693.1l-1.8-1.4M371.7 698.8l2.5-1.8M376.7 701.2l-.1-2.3M375.5 701.7l-.3 .7 -.6 3.6 5 1.1M380.8 706l4.5 .9 -.2 2.6M380.8 705.5l4.3-4.6M367.2 703l1 2.3 -3.4 2.5M370 700l1.3 2.8 3.9-.4M341.2 709.3l.3 .2 -.5 2.7 -5-.8M357.2 727.6l.4-2.4M363.8 727.5l-2.5 1.4 -2.6-3.5M361.3 728.9l-.3 .7M342.9 723.3l-1.1-.4 -.4 .1M284.2 725.7l-.5 2.6M280 726.5l1.4 3.5 -1.9 2.2 -2.3-.8 1-5.8M280.9 737l-.1-1 -3.8-.3 -2.6 3.3M303.7 769.5l3.1 4.3 -.7 1.4M308.1 766.8l-2.3-3.8 -1.7 .4M308 766.9l.6 2.4 -.6 3.9 -1.2 .6M309.6 766l3.9 3.1 1.4-.4M309.7 778.2l3.7-2.5 -2.4-2.5 -3 0M293 772.7l-.5 2.6 3.1 2.2 1-2.4M299.9 761.7l-2.2-2.7 -3.4 1M301.2 761.5l3.4-4.3 .7 .4M305.8 763l.7-.8M304.6 757.2l-.2-.5M286.2 757.1l-.1-2.5 5.5 1 -.1 .4M286.1 754.6l-1.1-1.3 .6-1.3 3.7-1.4 .9 0M290.1 736.1l-2.1-1.9M281.4 730l1.3 0M291 749.5l.4-2M289.3 750.6l-3.3-3.9 -2 1.4 1.6 3.9M285.8 739.7l.8 0M291.8 755.3l-.2 .3M296.5 756l1.2 1.4M297.7 759l0-.7M275.4 759.1l.7 1.9M273.8 764.2l1.2 .1M276.5 768.2l.2-2.4M255.9 703.3l-2.3 1.6M270 713.8l.6-.1M265.3 715l-3.7-1 -1 .9 2 2.4M266.2 717.7l0 .9M253.7 713.3l3.5 5.1 -2.6 2 .4 1.4 3.5 2.3 1.3-4.3 -1.3-1.4 -1.3 0M265 733.2l2-2.3 .2 0 2.5 2.7M263.6 732.7l-.4-1.3 -2.1-.6M263.2 731.4l2-2.4 1.8 1.9M252.9 719.8l1.7 .6M250.5 722l2.6 3.7 0 .6 -3.3-.4 -.4 3.6M262.8 723.7l-2.9 1.2 1.5 3.2 -1.1 1.6M262.8 723.7l3 1.9 -1 2.2 -3.4 .3M262.8 723.7l0-2.9M249.8 725.9l-2.8-1M279.2 692.4l-4.7-1.3 -.9 1M275 695.1l-.9-.4M270.1 697.9l-.1 .8 .3 .3M270.1 691.3l-.8-1.7M274.5 691.1l.4-1.6 3.4-1.1M269.6 689.2l3.5-2.6 -2.3-3 2.1-3.4 .7 .3 2 4.5 -2.3 1.6 -.2 0M272.6 703l-4.5 2.9 -.2-1.3 -1.7-4.2 -1.1 .2 -.2 .5 3 5 .2-.2M270 698.7l-1 .3 -.6 .2 -3.3-2.7 1.2-2.4M266.1 711.5l-1.1-1.5M269.7 710.5l.2 .2M268.5 707.3l-.8-.8 -2.7 .8M267.7 706.5l.2-.4M262.5 698.5l-1.6 .2 -2.4-1.2M262.5 698.5l.7-1.3 -.6-3.6 -3.9 1.6 -.4 .3M262.5 698.5l2.6 2.1M262.3 705.5l2.6-4.4M258.7 695.2l.8-3.3 3.6 .9 -.5 .8M252.6 694.5l.1 2.6M254.8 692l0-.5 -1.8-2M306.3 687.5l-1-1.4M305.2 689.1l-4.6 .8M300.2 689.5l-.2-2.6M296.9 736.4l.8 .7 2.9-1.8M296.3 732.9l.1-.1M294.8 742.1l-2.5-3.9 0 0M294.8 742.1l1.3 .1 1.9-4.4 -.3-.7M294.8 742.1l-3.3 1.1M305.1 735l.4 .5 .8 .2 1.9-.5M305.5 735.5l-.3 .4 -3.7 3.7 -3.5-1.8M306.3 735.7l1.3 4.4 3.8-.1 .3-1M302.3 751.1l1.4-1.3 1.2-.2M321.3 742.3l1.3 2.4 .3 2 -.6 .7M312.1 717.8l-1.8-1.1M310.3 724.2l-2-3.4M332.8 694.1l-.4-2.6M333.4 695l4.3-2.4 -3.9-2.3 -.7 .2 -1.1-5.6M335.3 703.5l3.3-.7M343.2 698.8l1.8-3.7M344 701l3.7-3.6M344 701.6l-1.1 1M347.3 702.6l-.9 4.9 -1.4 .6 -2.3-4.3M380.2 684.1l2.1 2.3 1.7 .1 2.4-2.7M380.2 684.1l-.1-1.2 1.6-1.9 4.3 1M380.2 684.1l-2.1 1.1 -2.8 .5 0 1.4 -1.2 2.5 -3.4-.4 -1.1 .8M377 674.4l-3 2.1 1.5 2.2 -2.5 3 1.2 2 3.2-2.3 -.4-2.1 -1.5-.6M380.1 682.9l-2.7-1.5M377.9 678.7l-.9 .6M374.2 693.5l-1.6 .1M374.2 693.5l.6 2.3M374.2 693.5l1.1-1.6 -1.2-2.3M351.2 702.9l-.5 3.8 2.6 1.8 2.6-2.8M353.5 701l-3.5-4.3M354.1 695.4l-3.2 .1M355.3 683.5l-3.6-4.1M356.2 682.5l-.9-4.9M350.5 679.2l-4.5-.6 -.4 1.2M347.8 653.2l3.1 1.8 -.2 1.9M359 654l.3 4.5M361.1 672.1l0-5M361.5 672.7l-2.5 4.2M362.4 673l4.7-.3 .4-2.1 -1.9-1.6 -3.7 3.7M349.6 662.8l-2.1 3.3M350.2 663l3.9-3.4M338.6 652.6l-3-3.3 -1 1.6M335.6 649.3l-.1-1.1M317.4 654.2l-2.5 3.3M317.2 648.3l-.1-.2 1.7-2.8 .1-1.4 -4.1-.3 -.9 3.2 3.2 1.3M328.5 657.5l-.4-3.4 -2.6 .2 -.4-3.8 3.5 0 .2 .2 .4 .8 -1.1 2.6M326.8 658.5l.6-.2M318.6 662.7l-4.9 0 -.8-.9 -.8-2 -3.1 .5 -1.2-1.3 0-3.6 1.4-.7 3.6 3.2 .1 .1 1.9-.4M319 662.4l0-.1M330.7 652.4l-1.5-.9M328.8 646.5l-.2 4M335.9 686.6l-.1 1.7 -2 2M333.1 690.5l0 .1M323.9 676.7l.4 3.6M327.8 678.2l-1.6 2.4M320.9 679.6l2.3 1.2M371 722.9l.3-2.5 -3.5-1.3 -.1-1.2 2-2.1 2.7 .6 0 .1 -1 3.9 -.1 0M365.8 723.2l1.7 .9M369.2 713.7l-4-1M369.2 713.7l2-2.8 -1.4-1.5 0-3.2 1.6-.8 3.2 .6 -1.2 4.9 -.2 .1 -2-.1M369.2 713.7l.5 2.1M364.9 712.9l.4 3.3 -2.1 1.3M385.5 728.4l-1.6 .3M390.6 715.7l.5-5.1 .8-.2M390.2 716l-1.8-4 2.1-1.5 .6 .1M375.8 713.8l1.2 .3M375.8 713.8l-1.6 3.3 1 .7M375.8 713.8l-1.9-1.1 -.7-1.7M373.9 712.7l-1.5 3.7M372.2 761.7l1.7 3.3 2.1-.8 2.5 1.7M376.2 761.6l-.2 2.6M376 761.5l-2.3-3.2M379.3 753.4l1 3.9 .3 .1M380.3 757.3l-1.4 .7M319.6 780.5l-.9 3.2M321 776.5l-2.5-1.2 -.3 3.8 -3.7-1.9 -.3-1.1 3.2-2.2 1.1 1.4M319.4 780.1l-.4-.2 -5 1.6M363.7 733.5l-.7 1.7M364.3 740.5l-2.9 1.5 -1.3-.2 -1.5 3.3 1.9 1.5 1.8-1.3 -.9-3.3M365.6 735.9l1.8-1.1M358.1 739.8l2 2M357.1 739.6l-.8 .2M355.9 740.4l2.3 4.7 -2.3 1M358.2 751.1l2.3-1.4 3.8 .9M358.2 745.1l.4 0M359.6 763.2l2.3-2M359.4 758.9l3.3 .4M341.5 749.8l.3-1.6M346 748.5l-2.5-2.2M362.1 774.1l.2-3.8 1.9 .2 1.2-2.4 0-1.4M364.2 770.5l2.3 2.3M362.1 770.1l-.9-4.5M362.1 770.1l.2 .2M362.1 770.1l-1.4 .6M368.7 769.4l-3.3-1.3M368.7 769.4l-1.8 3.3M368.7 769.4l1-.9 1.7 .6M355.9 772.2l.2-1.2M330.5 735l-3.5 .6 -1.6-.9M327 735.6l.3 4.2M325.1 733.3l1.7-2.4M329 746.5l2.6-1M331.5 742.4l-.7-.3M256.2 672.8l2 .6M272.2 666.2l1.5-2.4M286.6 654.3l.7-.3 2.6-2.1 -.2-1.7 -3.9 .5 -1.1 1.8 .1 .8 1.8 1 -.6 3.5 -3.5-.6 -1-1.8 3.3-2.1M289.7 650.2l0-.2 1.2-1.9 .2-.8M313.9 646.8l-1.8 .5 -2-2.5 3.6-3.5 1.1 2.3M309.2 654.7l1-3.6 -2-.8 -3.6 .6 .6 4.5 2.6 0M309 660.3l-2 3.2 -3.1-1.5 -.1-2.3 4-.7M312.1 659.8l.8-1.8M312.8 657.9l.7-4.2 2.7-.2M291.6 644.9l3-1.4 2.1 1.5 -1.2 2.8 1.9 2.1 1.4-.2M291.2 647.3l4.3 .5M303.2 641.2l1.9 3.2M260.6 678.2l3 2.2M266.5 676.3l-.1-1 -4.2 .1M266.4 675.3l.1-.2 1.4-.6M301.1 677.2l.1-3.6 -.9-.4 -1.6 .5 -2.1 2.1 3.3 2.4M298.9 679.6l-5-.2 .1-2.2 2.6-1.4M285.8 674.3l-.3 .7 .6 2.9 2.2 .3 1.5-3 -4-.9 0-2.2 2.7-.5 2.9-2.8 -1.9-1.2 -4.3 .6 -.4 2.6 1 1.3M282.7 684.3l.6-.7 .3-4.4 1.9-.6 1.1 3.6 -3.3 1.4M272.9 677.7l.1 1.1 4.5-2.1M274.5 673.1l2.4-.1 1.7 .8 2.1-2.4 -1-5.5 -.3-.1 -2.6 1.5 -.2 2.2 .3 3.5M278.7 673.9l-.1-.1M270.2 679.1l2.5 .7 .3-1M269 684l1.8-.4M281.3 678.7l2 .4 -.1-3.7 -2.8-.1M269.1 663.5l-2.9-.7M269.1 663.5l2-3.5M269.1 663.5l2.2 2.8 0 0M264.3 663.7l0 0 1.1 4.9 -5-.1 -.1-.2 4-4.6M372.1 662.9l-.9 3.9M373.8 663.7l-.7 4.8M367.2 664.9l2.2 1.9M365.6 669l-1.2-2.5M380.3 671.7l1.4-1.4M384.4 672.8l-3.7 2M387.8 694.5l3.7 1.2 2.2-4.3M378.9 733.7l.4-1M384.2 734.6l-1.4-.8M357.7 687.7l3.2 .7M364.6 683.6l.1-1.4 -1.3-3.5M387.8 699.8l3.9 1.8 -5 2.2 -.7 2.8 1.3 .5 3.9-1.7 1.6-2.7M385.3 695.5l-.5-.5 -1-3.9 1.3-1.6M385.4 701l1.3 2.8M367.3 684.7l1.5-.4 2.2 1.4 -.3 3.5M367.2 689l1 .6M374.6 706l0 0M371.3 702.8l.1 2.6M368.2 705.3l1.6 .9M365.9 710l3.9-.6M341.5 709.5l3.3-1.1 .2-.3M341 712.2l.2 .5 -1.1 2M345.5 720.7l.1-1.3 -3.8 1.5 -1-3 2.8-.5 2.3 1.4 -.3 .6M341.8 722.9l0-2M337.3 720.2l3.3-2.4 -.7-1.9M273.6 736.2l2.1-2.2 -.1-1.3 -3.6-.6 -.7 .8M272 732.1l-.1-3.5 1.3-.8 4 3.6 -1.6 1.3M279.5 732.2l1.5 3.4 -.2 .4M275.7 734l1.3 1.7M281 735.6l1.7-.7M277.5 724.7l-2.5 .6M277.2 731.4l0 0M308.6 769.3l4.5 .3 -2.1 3.6M295.6 777.5l-.2 1.1M291 777.3l1.5-2M300.3 777.6l-2.1 2.2M282.2 758.2l1.2-4.5 1.6-.4M280.5 758.6l-.6-.1 -1.3-1.1M279.9 758.5l-1.3 2.6M283.4 753.7l-2.5-.8M280.1 752l3.4-4 -2-1.5M284.6 732.3l0-.8M282.7 743.5l4 .9M286 746.7l.7-1.3M284 748.1l-.5-.1M260.9 720l-1.1-.2M258.7 710.4l1.7 .1M257.2 713l3.1 2 .3-.1M261.6 714l.2-1.6M260.3 715l-1.8 3.4M249.9 682.4l3.8 4.3M252 679.9l5.5 3.7M249.9 682.2l6.3 2M259.9 724.9l-1.2-.4 -.3 .3M253.3 726.7l-.2-.4M253.1 725.7l1.9-3.9M258.7 724.5l-.2-.4M263.2 697.2l1.9-.7M263.9 692.1l-.1 0 -.7 .7M274.9 689.5l-1.6-2.9M278.9 685l-3.3 0M268.4 699.2l-2.2 1.2M269 699l-1.1 5.6M260.5 702.1l.4-3.4M256.4 702.2l-.2-3M299 684.8l-.5 0 -5.1-4.5 -.2 .2 .3 4 .4 .8 4.5-.4 .1-.1M287.6 740.8l.3 1.2M292.3 738.2l-1.1 4.8M296.1 742.2l.5 1 -1.1 3.4M312.8 742.4l-1.2-1.6 -.2-.8M340.3 695.8l-1.3-3.3 -.3 .1 -2.8 5.6M340.3 695.8l-.3 1.6M340.3 695.8l4.5-1.4 0 .1M337.8 698.7l-1.7-.4M345.9 691.5l-1.2 1.1 .1 1.8M344.7 692.6l-2.8-1.2M349.7 692.5l.6 2.1M337.7 692.6l1 0M339 692.5l0-.1M335.8 688.3l2.3 1.6M384 686.5l1.3 2.4M382.3 686.4l-2.2 2.8M375.3 685.7l-1.2-1.4 -3.1 1.4M378.1 685.2l.7 3.8 -3.5-1.9M381.7 681l-.4-3.3M381.5 677.3l4 0M353.3 708.5l.4 1.9M353.2 711.1l-3.9-.9 -.4-2.2 1.8-1.3M352.2 658l1.5 .4M350.9 655l1.2-1.1M355.4 654.4l-.6 2.5M353.4 671.6l.3-1.3M359.2 671.8l-2.4-2.2M360.4 661.5l-.6-1.1M360.9 667l-2-.1M364.9 663.6l.6-3.9 1-1.1M363.6 656l-3.8 3.8M365.5 659.7l-5.6 .6M352.5 664.1l2.5 2.4M351.4 664.1l.1 3.4 -2.5 .4M351.5 667.5l1.9 1.5M313.5 653.7l-3.1-2.7 -.2 .1M314.4 651.2l-3.9-.3 1.6-3.6M324.3 656.6l1.2-2.3M323.4 656.5l-.5-.3M323.5 649.8l-1.4 .8M323.5 649.8l1.6 .7M323.5 649.8l0-2 1.5-2.7M318.8 645.3l3.9 1.9 -2.1-4.4M318.9 643.9l.3-.6M333.6 647.9l-4.8 2.8M339.4 682.7l2.3-1.2 1.6 .5M337.1 681.7l-.5-3.4M338.6 676.3l1.1 .5M374.2 717.1l-1.8-.6M375.4 720.7l-4-.3M365.9 721.6l1.9-2.5M365.3 716.2l2.4 1.7M392.3 708.9l-1.1-3.5M378.6 710.1l-5.2 .8M319 779.9l-.8-.8M313 781.2l1.5-4M360.5 749.7l0-3.1M364.4 745.4l-2.1-.1M365.7 746.3l.6 1M326.9 745.6l0-1.4M325.8 746.6l-2.9 .1M322.6 744.7l3.5-1.7M258.3 665.4l2 2.9M255.1 670.5l5.1-1.5 .4 3 -.5 .8M300.7 647.1l-1.7-2.7 -2.3 .6M297.4 649.9l-.7 .9 -2.1 .4 -3.7-3.1M275.2 656l2.4 1.5 .1 1.2 -2.1 2.6M275.2 656l-2.6 2.8M275.2 656l-.2-.8M274 669.3l2.6 .2M272.9 666.5l3.9 .8M275.7 662.2l2.8 1.7 .9 1.9M300.9 652.3l-.2 1.7 3.9 1.7 .6-.3M304.4 650.8l.2 .1M285.8 650.7l-2.2-3.3M284.7 652.5l-3.8-3.1M287.3 654l2.9 3.4 0-5.2 -.3-.3M281.5 655.4l-.5-.2 -1.6-3.3M281 655.2l-3.4 2.3M277.7 658.7l2 1.4 2.3-1.4 1.4 2.6 -1.8 .3 -1.8-.8 -.1-.7M286 657.8l.5 .7 -1 3 4.3 1.3 1.8-1.1 -.7-3 -.4-.2 -4 0M282.5 657.2l-.5 1.5M313.8 641.2l-.1 .1M308.6 642.3l-.3 1.8 1.8 .7M289.7 650l-5.7-2.9M299 644.4l0-.1 2.6-2.8M294.6 643.5l.9-3.3M291.1 688.5l-.5-.4 -3.6-.3 -1.4 4M293.9 679.4l-.5 .9M288.3 678.2l2.7 2.7 -1.6 1.6 -.7 .2 -1.9 4.9 -3.1-2M289.8 675.2l1.2-.4 1.6 .1 1.4 2.3M306.3 677.9l-1-2.6 -2.6-2.2 1.2-1.4 2.2-.4 3.6 1.2 -4.4 2.8M309 676.7l1.2-4.2 .4-.2M313.7 662.7l-.7 4.9 .1 .3M312.9 661.8l-3 2.2 2.5 3.1 -5.3-1.8 .1-1.4 2.7 .1M282.5 689.6l.8 1.4M278 680.7l-4.4-.2M272.7 679.8l.2 .4M285.5 675l-2.3 .4M286.1 677.9l-.6 .7M283.3 679.1l.3 .1M271.3 666.3l-5.8 2.3 4.3 2.5M367.5 670.6l.8-.5M367.1 672.7l.3 .5 2.4-.1 2.9-2 .2-.5M359.4 692.5l1.6-1.7M362.7 695.1l.7-3M367.4 673.2l.1 2.9 4.3-.5 .8 .1 .6 .6 -2.5 4 -.5 .1 -1.4-.8 -1.6-2.9 .3-.6M374 676.5l-.8-.2M368.8 684.3l1.4-3.9M374.1 684.3l.1-.6M346.4 707.5l2.5 .5M344.8 708.4l1.6 4.6 1.2 .4 1.7-3.2M341.2 712.7l3.1 1 2.1-.7M340.6 717.8l.2 .1M267.2 730.9l3.1-2.8 -2.9-3.2 -1.6 .7M265.2 729l-.4-1.2M313.4 775.7l.4 .1 1.7-6.5M313.5 769.1l-.4 .5M254.8 691.5l3.6-1.9 1.1 2.3M253 688.7l.6-1.3M263.8 692.1l-3.9-4.5M258.4 689.6l1.4-1.9M296.6 743.2l3.4 .8 2.8-1.2 1 .5 -2.1 4.6 -1.3-.2 -.7-1.8 .3-1.9M305.2 735.9l0 7.4 0 0 2.4-3.2M301.5 739.6l1.3 3.2M311.6 740.8l-3.4 2.5 2.7 2.2M308.2 743.3l-3 0M305.2 743.3l-.3 .2 1.5 4M384.8 695l-4.8-1.8M383.8 691.1l-3.1 .1M375.3 691.9l0 0M378.8 689l0 0M341.7 681.5l-.9-3.2M346 678.6l-.3-.8M390.5 710.5l-3.2-3.4M388.4 712l-.4 .1M385.3 706.9l.7-.3M369.7 768.5l-.6-1.8M369.6 764.8l4 .6 -.1 2.3M373.9 765l-.3 .4M303.4 668.1l-3-.8 -.4 .3 -.3 3.6 .6 2M303.4 668.1l.5 3.6M303.4 668.1l.8-.7 2.5-.7 .3 .5 -.9 4.1M299.7 671.2l-4.8-2 2-1.5 3.1-.1M301.2 673.6l1.5-.5M304.2 667.4l-1.6-4.5 -1.4 .5 -.9 1.3 .1 2.6M307 663.5l.2 .4M296.7 650.8l-.2 4.6 2.3 .5 1.9-1.9M294.6 651.2l-1.9 2.3 -2.5-1.3M300.3 664.7l-3.7-.6 0 0 -2.4-1.2 2-2.5 2.6-.3 .4 .9 -2.6 3.1M278.5 663.9l1.3-3.1M280.5 665.7l-.8 .2M280.5 665.7l1.1-4.1M280.5 665.7l3.3-.2 .4-.6 .5-2.7 -1.3-.9M280.7 671.4l4.1-.6M308.3 644.1l-.5 .1M308.2 650.3l-.4-1M310.5 650.9l-.1 .1M299 644.3l-2.8-4.6M288.7 682.7l-2.1-.5M290.6 688.1l.2-2.1 -1.4-3.5M287 687.8l-.2-.2M295.5 688l2.9-3.1M293.9 687.2l0-1.9M291 680.9l2.2-.4M290.8 686l2.7-1.5M298.7 673.7l-5-2.7 -1.1 3.9M310.2 672.5l-.5 0M266.5 675.1l-1.5-3.8 .5-2.7 0 0M391.5 695.7l1.5 2.5M372.7 671.1l-.1 4.6M369.8 673.1l2 2.5M364.8 677.3l2.4-.6M364.7 682.2l4.1-2.6M373 681.7l-2.3-1.4M344.3 713.7l-.7 3.7M348.1 714l-.5-.6M347.7 718.1l-1.8 .7M267.4 724.9l.5-1M273.2 727.8l1.3-2.1M271.9 728.6l-1.6-.5M313.8 775.8l.4 .3M317.8 773l-.4 .9M296.4 747.7l3.3-1.8M298 750.3l2.4-2.6M297.3 750.4l.2 .1M304.9 743.5l-1.1-.2M303.7 749.8l-2-1.9M323.5 647.8l-.8-.6M391.9 701.6l-.2 0M294.4 655.9l-1.7-2.4M294.4 655.9l.7 .1 1.4-.6M294.4 655.9l-3.5 2.8M290.2 657.4l.3 1.1M304.6 655.7l-1.1 3.3 .3 .7M284.7 662.2l.8-.7M293.7 662.9l-1.1 6 .9 .8 1.4-.5M293.7 662.9l.5 0M293.7 662.9l-2.1-1.2M296.9 667.7l-.3-3.6M293.7 671l-.2-1.3M292.6 668.9l-1.2-.1M291 674.8l-2.5-3.2M311.2 670.2l-4.2-3M306.7 666.7l.4-1.4M313 667.6l-.6-.5M265 671.3l-4.4 .7M265.5 668.6l-.1 0M260.2 669l.2-.5M303.5 659l-3.7-.8 -1-2.3M303.9 662l-1.3 .9M301.2 663.4l-2-2.4M295.1 656l1.1 4.4M299.8 658.2l-1 1.9M283.8 665.5l1.4 2.7M284.2 664.9l4.7-.3 .9-1.8M288.9 664.6l.6 3"/>
<path fill="#cbc9e2" d="M472.1 657.6l-2.8 3.8 -1.3 .1 -1.3 1.3 -2 .4 -1.7 3 1.1 2 -1.5 2.4 -.8 .8 -.7 .2 -2.3 2 2 3.7 -1.2 1.8 .5 2.1 .2 1.7 -2.8 .4 -1.5 4.1 -.5 .3 0 1 -1.5 3.9 -1 .3 -1.7 3.1 .2 .5 4.4 2.5 .5 1.7 -2.6 2.1 .1 1.1 -2.2 2.8 -2.2 .8 -.4 .4 1 3 -.7 1.6 .5 2.3 -.5 3.5 .9 1.8 2.6 1.1 -.1 2 -2.2 3.6 1 1 1.3 2.2 -1.1 2 2.2 4.3 -1 1.7 2.8 2.4 -.1 .9 1.4 1.4 -.2 2.2 2.6 .9 .6-.3 3.7 3.1 -.2 .6 1.4 4.4 2.4 .2 2 3.3 -.5 1.1 2 2.8 -.8 2.6 .8 .8 2.7-.3 1.1 .4 .7 1.5 -.3 2.6 1.1 1.6 1.5 0 2.7 1 3.3 1.7 2.4-1.3 1.1 .3 1.6 2.6 4.4 4 2.6 .7 3.5-4 2.9 2 .9 1.2 2.5-1 3.4 1.2 .4 .7 2.9-.4 2.1-1.6 .6 .1 1.9-1.1 3.6 3.2 .8 .1 1.4 2.1 3.5 .1 1.4 .8 1.9-.4 1.7-2.2 1.1-.7 1.2-.1 .5-.3 4.2 1.4 3.6 1.5 2.5-2.4 .4-.1 2.2 4 1.8 .6 .4 0 1.9-2.6 2.4 .3 .5 1.1 4 1.8 2.2-2.6 2 .4 2.3 1 1-.6 1.9-3.1 1.9-.6 -.1-2.2 4.2-3.1 -.4-1.8 3.2-1.6 .8-4 2.5-.2 .8-.8 2.3-.9 .2-1.2 2.1-2.8 -.5-1 .2-5.4 3.3 0 1.8-4.4 -1-1.1 1.9-3.7 -.5-2.4 1.7-1.4 .1-2.3 .4-.3 3.9-1 0-2.1 -.5-.8 .9-3.1 -.9-.9 1.3-3.1 -1.8-2.1 -2.6-.5 -.5-.8 1.9-2.9 1.5-.3 .5-.7 .7-3 -3.5-.9 -.2-3.5 .5-.4 -.3-4.1 2.1-1.3 .7-3.4 -1.5-1 -.9-3.2 2.2-3 .1-.6 -1.1-1.2 -.8-2.9 3.4-1.9 -2.8-3.8 -.4-.9 .5-.5 1.5-4 -2-.8 -.3-3.7 -2.1-.5 .3-4.4 -4-.2 .7-2.2 -1.3-3.3 -1.3-.4 .5-2.8 -2.9-1 .4-1.6 -2.3-2.3 .2-1.2 -.7-1 -1.8-1.3 -2.3 1.4 -1.5 .3 -.8-4.6 -3.2-.6 -1 .7 -3.7-2.1 -1.2 1 -3.7 1.4 -.1-4.2 -1.1-1.7 -3.1 1.4 -2.3-1.3 -.7-.1 -2.8 2.1 -2.6-.4 -.3-4.4 -1.5-.3 -2.4 .2 -1.7 2 -.6 1.1 -2 .1 -3.3-3.9 -1.8 1.9 -1.5 .8 -2.9-1.6 -.4 .4 -4.3 1.3 -1-2.4 -.9-.1 -2.6 .7 -1.4 0 -1-1 -4 0 -1.2 1.3 -4.5-.7 -3.2 1.4 -2.3-.4 -1.5 .9 -3.7-.7 -.5 2 -2.3 1.9 -2.7-2.5 -2.8 .7 -.7 1 -1 .3 -1.4 5.5 -2.8-1.4 -2 2.6 -2.8-1.3 -1.2 1.2 -.1 3.6 -3.7-.2 -1.3-.3 -1.3 .8z"/>
<path fill="#1f77b4" d="M526.7 644.7l-.1 1.9 -1 1.8 -.5 .4 -.5 2 1.8 2.9 1.2 .8 -.1 .5 -3.4 3.3 3.4 3 -1.2 .9 -2.2 .6 -1.3 .6 -.4 2.3 2.7 3.9 -.1 .8 .4 1.6 3.4 2.8 .5 1.5 -2.7 .8 -2 0 -1.3 2.4 2 2.1 -.4 1.3 -3.7 2.4 1.1 2.1 -1.5 2.7 .2 2 -1.7 1.8 1.7 3.1 -.9 2 .2 .9 -.4 .7 -.2 3.3 3.3 1.9 -1.2 3.6 .3 1.6 -.9 4 .6 .9 .4 1.9 3.2 2.7 0 1.5 -.4 .4 -1.6 .5 -2.1 2.8 -.1 .4 1.5 2 .8 3.1 -.2 .8 .5 1.1 .2 4 -.7 1.2 2.1 3.2 -.5 2 -1.5 .1 -1.2-.3 -3.5 2.9 0 .4 1.3 1.1 .8 1 -.7 2.5 -1.6 1.1 -.2 .5 .1 4.1 -.8 .7 2.3 4.8 0 .7 1.4 1.6 -.3 .9 -3.3 2.3 2.5 3.9 -.2 .6 -2 1.3 -.1 .5 -1.1 2.1 3.7 3.2 .8 .1 1.4 2.1 .5 .1 3 0 1.4 .8 1.9-.4 1.7-2.2 1.1-.7 1.2-.1 .5-.3 4.2 1.4 3.6 1.5 2.5-2.4 .4-.1 2.2 4 1.8 .6 .4 0 1.9-2.6 2.4 .3 .5 1.1 4 1.8 2.2-2.6 2 .4 2.3 1 1-.6 1.9-3.1 1.9-.6 -.1-2.2 4.2-3.1 -.4-1.8 3.2-1.6 .8-4 2.5-.2 .8-.8 2.3-.9 .2-1.2 2.1-2.8 -.5-1 .2-5.4 3.3 0 1.8-4.4 -1-1.1 1.9-3.7 -.5-2.4 1.7-1.4 .1-2.3 .4-.3 3.9-1 0-2.1 -.5-.8 .9-3.1 -.9-.9 1.3-3.1 -1.8-2.1 -2.6-.5 -.2-.1 -.3-.7 1.9-2.9 1.5-.3 .5-.7 .7-3 -3.5-.9 -.2-3.5 .5-.4 -.3-4.1 2.1-1.3 .7-3.4 -.2-.3 -1.3-.7 -.9-3.2 2.2-3 .1-.6 -1.1-1.2 -.8-2.9 3.4-1.9 -2.8-3.8 -.4-.9 .5-.5 1.5-4 -2-.8 -.3-3.7 -2.1-.5 .3-4.4 -4-.2 .7-2.2 -1.3-3.3 -1.3-.4 .5-2.8 -2.9-1 .4-1.6 -2.3-2.3 .2-1.2 -.7-1 -1.8-1.3 -2.3 1.4 -1.5 .3 -.3-.8 -.5-3.8 -3.2-.6 -1 .7 -3.7-2.1 -1.2 1 -3.7 1.4 -.1-4.2 -1.1-1.7 -3.1 1.4 -2.3-1.3 -.7-.1 -2.8 2.1 -2.6-.4 -.3-4.4 -1.5-.3 -2.4 .2 -1.7 2 -.6 1.1 -2 .1 -3.3-3.9 -1.8 1.9 -1.5 .8 -2.9-1.6 -.4 .4z"/>
<path fill="none" stroke="#fff" stroke-opacity=".7" stroke-width=".5" d="M479.3 693.5l-3-.2 -2.7 .8 -.8 3.2 -.6 0 -3.4 2.7 -1.4-2.7 2.1-.9 2.7 .9M479.3 693.5l.6 .9 1 .3 2 1.7 4.7-3.8 .8 5.3 -1.6 .5 -2.8-.4 -1.1-1.6M479.3 693.5l.3-1.9 1.8-1.8 4.3 .4 0-2.2 -4.4-.9 -.1 .2 .2 2.5M467.9 683.6l-3.8-.9 -.9 .8 -1.6 .6 -.1 3 0 .1 3.1 1.1 2.5 .1 .8-1.9 -4.7-3M467.9 683.6l.7 2.3 -.7 .6M467.9 683.6l1-3.4 -.1-.2 -3-.5 -1.7 3.2M456 687.4l5.5-.3M541.1 685.3l1.8 1.1 .6 2.4 -.4 1.5 -3.5 .6 -1.2-1.3 2.7-4.3 -1-1.4 -2.8 .9 .3 4.5 .8 .3M543.1 690.3l.6 .9 -1.6 3.8 -1.5 1.1 -1.2-.8 -.6-2.1 -4.1-.5 -.2 4 .3 .4 4.6-1.8M539.6 690.9l-.8 2.3M569.7 719.9l-.3-.6 -4 2.4 2.8 2.9 1.5-4.7 1.8 1.5 3.2-3.7 .9 1.7 -1.2 3.7 -.8 .5 -2.1-2.2M565 704.9l-.4 1 -4.7 .3 .7-3.7 2.3-.9 1.8 1.7 .3 1.6 4.3 0 .7-.5 .1-.1 -2.6-3.3 -2.8 2.3M583.5 711.8l1.5-2.7 -.8-.7 -3-.5 -.2-1.3 1.3-2.3 1.5 .8 .4 3.3M583.5 711.8l-.6 .9 -4-1.2 -.6 .6 .3 3.4 1.5 1.3 2.6-.3 .9-1 -.7-2.8M583.5 711.8l4.7 2 .9-1.4 -1.6-2.6 -1.2-.8 -1.3 .1M549.3 706.9l-1.5-2.1 -2.7 .9 -2.4-1.1 2-3.3 3.5 2.6 -.4 .9M549.3 706.9l-3.1 3.6 -.1 0 -1.3-1.3 .3-3.5M549.3 706.9l.3 .2 .7 2.5 -2 2 -2.1-1.1M560.6 702.5l-1.1-.6 -1.8 .7 .1 3.1 -3.5 .1 -.5-1.6 2.7-2.1 1.2 .5M564.6 705.9l.6 2.7 -5.8 .8 0-2.9 .5-.3M503.8 697.9l-5.5-.3 .5 3.9 2.2 1.1 3.5-3.4 .2-.4 1.6-.5 2.3 1.6 .3 2.9 -2.7 1.2 -.5 .8 .1 1.4 .3 .2 4.4-.9 -1.4-2.6 -.2-.1M503.8 697.9l.9 .9M503.8 697.9l-.8-3.3 -3.8-.6 -1.5 2.6 0 .1 -5.1 1.7 -.3 0 1.2-3.3 0-3.5 -.1-.2 -1.5 .1 -.4 6.8 .8 .1M498.3 697.6l-.6-.9M544.8 709.2l-1.7 .3 -2.4 1.9 0 .5 .3 .5 .2 1.9 4.1 1.4 -.2-3.6 -4.1 .3M527.2 718.3l.4-2.3 -5.8-.2 .5 2 -3.3 3.3 4.4 1.8 1.6-.4 .4-.5 0-1.5 -3.1-2.7M527.2 718.3l-1.8 2.2M527.2 718.3l4 1.7 -.5 3.6 -5.3-1.6M527.6 716l.1-.2 1.6-1.4 2.7 2 .7 1.9 -1.5 1.7M530.5 708.1l-.6-3 -2.8-1.5 -1.5 2 2.2 3.3 2.7-.8 2.8 0 1.5-3 .2-.1 4 .9 .1 3.6 -3.5 1.3 -2-1.3 -.3-1.4M529.9 705.1l3.6-.5 -3.6-2.8 -2.7 1.5 -.1 .3M529.9 727.1l1-3.3 -.2-.2M529.9 727.1l-2.3 1 -2.2-2.8 -2.6 2.8 .7 3.1 2.9-1.1 1.2-2M529.9 727.1l.4 .4 .1 4.3 .8 .4 1.5-.6 .8-2.2 -3.2-1.9M529.9 741.5l2.7-.3 .4 .2 2.3-1.3 2.3 2.2 -4.3 1 -.3-1.9M529.9 741.5l-.6 4.1 2.2 1.2 1.7-1.6 .1-1.9M529.9 741.5l-1.6-1.2 1.1-3.6 -.1 0 -5.2 .4 -.3-4 4.4 1.5 .3-2.9 -2.1-1.6M482.7 716.2l-.9 0 -2.7 4.2 -1.1 .2 -2.1-2.5 3.8-3.6 2.1 1.7M482.7 716.2l1.8-1.4 .1-3.4 1.3-1.2 3.3 1.8 -2.2 3.2 -2.5-.4M482.7 716.2l2.5 4.1 2 .4 .2-.1 1.6-3.4 1.6-.4 2.2 1.4 -2.8 3.6 -2.6-1.2M568.2 724.6l.5 2.1 -1 .4 -1-.2 -4.4 2.4 -1.5-2.7 1.7-2.3 4.2 2.6M562.3 729.3l.1 .7 4.1 .5 .2 1 -2.1 3.5 -1 0 -1.3-4.7 .1-.3M563.5 735.1l-3.8-.7 -1.2-1.1 .2-1.7 -.8-1.4 .6-3.3 2.3-.3M563.5 735.1l.1-.1M563.5 735.1l-1.6 4.3 -.5 .2 -3.2-.9 1.5-4.3M586.6 672.7l2.4 3.5 -1.1 2.9 3.2 3.4 2.9-2.8M586.6 672.7l-1.9 1.1 -1.1 3.3 -2.6-.7 1.2-2.4 -1.7-1.9 -2.4 1.1 1.9 3.7 1-.5M586.6 672.7l0-.4 -3.9-3.5 -1.1 .4 -3-1.3 -2.4 2.1 1.2 3.1 .7 .1M576.7 679.8l1.7-1.8 -2.6-3.7 -.3 .1 .9 5.3 .3 .1 .7 1.5 2.1 1.3 1.9-1.1 .5-1.4 2.8-1.3 2.3 .6 -2 3.6 -.5 .3 -3.1-1.8M584.7 673.8l-2.5 .2M583.6 677.1l1.1 1.7M576.6 660.9l.4 .1 1.7 2.7 -.8 1.8 .7 2.4M576.6 660.9l-3.6 1.1 .1 2 -2.3 3.3 -2.1-.9 -.6-2.7 4-2.3 .9 .6M576.6 660.9l-1.3-4.9 -3.5 .6 -.8 2.6 1.1 2.2M579.8 677.2l-1.4 .8M579.8 677.2l.2-.3M579.8 677.2l2.1 2.9M577.9 665.5l-2.6 .2 -1.5 3.7 2.4 .6M581.6 669.2l-1.1 2.9M559.8 677.1l.1-2.1 2-1 3 2.4 -3.4 2.8 -.3-.1 -1.4-2 -4.1 .8 -1.9-1.7 0-2.2 2.7-1.7 .9 .1 2.5 2.6M577.4 681.3l-2.3 3 -2.8-4.6 -1.5 1.1 3.8 4.8 .5-1.3M579.5 682.6l.2 3.1 3.6 .6 1.2-3M551.3 701.5l-1.3 .2 -1.8 2.2M551.3 701.5l2.5 2.7M551.3 701.5l1.9-2.5 2.7-.4 .6 3.5M550 701.7l-1.5-1.8 -4-.8 1.3-3.3 .6-.5 2.3 2.3 -.2 2.3M460.2 681.2l5-2.6 -.9-1.9 -3.4 .6M460.4 682.9l1.2 1.2M468.8 700l-.3 1.1 4.3 1.3 .2 .8 -2.2 2.4 -2.6-1.1 -.2-3.1 .5-.3M468.6 685.9l3-.3 2.1 1.7 -1.9 3.5 -4-.7 -1.3 2.8 2.2 1.1 3.6-1.4 -.5-1.8M501.8 708.8l-.4 .5 -.5 4.2 5.8-.7 .1 .2 -.9 2.3 -4.3 2.2 -1-2.3 0-1.4 .3-.3M501.8 708.8l1-.1 3.9 3.8 2.1-2.9 -2.7-3.2M501.8 708.8l-1.4-1.9 -4.4-.1 0 .7 -1.6 3.2 0 2.2 .5 .3 2.4-.8 .4-2 -1.7-2.9M501.4 709.3l-3.7 1.1M587.5 709.8l4.1-2.6 1.4 1M540.1 683.9l.6-3 3.8 .3 1 1.3 3.4-.9 2 1.1 -2.1 3.4 -3.2-1.5 -2.7 1.8M533.5 704.6l1.3 .5M540.6 696.1l.7 2.7 3.2 .3 0 0M535 699.5l-.2-2.4M535 699.5l-4.5 .8 -.5-1 .3-3.5 4.2 .9M535 699.5l.4 .7 .7-.1 4.9-.9 .3-.4M543.7 691.2l3.3 1.7 1-.6 1.1-4.6 -5.6 1.1M542.1 695l3.7 .8M565.2 708.6l.3 .5 3.5-1.2 .3-3M559.2 710.5l0-.7 -5-1.8 -.2-1.7 -4.4 .8M559.2 710.5l-.3 .4 -2.1 1 -1 3.2 -3.8 1 -.5-.3 1.7-5.1 .1 0 3.5 1.2M559.2 710.5l3.2 1.4 -1 3.8 1.5 .3 2.5-4.6 -3 .5M582.3 704.3l-1-1.8 3.6-2.5 -2.5-2.3 -2.8 2 1.2 2.8 .5 0M562.9 701.6l0-3.5 2.4-1.4 -2.7-4.1 -2.5 3.7 -.1 .9 2.9 .9M567.5 701l1-2.7 -2.5-1.7 1-2.9 4 1.2 -1.9 3.4 -.6 0M559.5 701.9l-1.4-4.2 -.3-.1 -.8 .3 -1.1 .7M554.2 708l-.9 2.7M554 706.3l.3-.5M559.4 706.5l-1.6-.8M559.2 709.8l.2-.4M541.2 714.3l-.1 .1 -.7 5 1.2 .8 1.3-.4 2.6-3.9 2.9 .4 -1.1 5.3 -4.4-1.8M544.5 699.1l.2 2.2M541 699.2l-.1 4.5 .1 .8 1.7 .1M515.1 724.5l-.5 2 2.6 2.8 3.9-3.1 .1-.1 .1-.4 -3.3-3.5 -2.6 2.1 5.7 1.9M515.1 724.5l.3-.2M515.1 724.5l-.2-.2 -6-.5 .2-1.5 4-.7 1.8 2.7M525.4 725.3l-.4-2.8M522.8 728.1l-1.6-2M521.8 715.8l-.6-.8 -3.4 1.2 -.3 2.6 1.3 2.3 .2 0M518.8 721.1l-.8 1.1M529.3 713.7l0 .7M529.3 713.7l-1.3-2 -4.8 1.1 4.5 3M529.3 713.7l2.5-1.6 3.3 2.2 -3.1 2.1M537.7 736.7l-2 2 -4.4-2.1 3.2-1.9 3.2 1.9 0 .1 3.1 3.5 .1 .7 -1.9 2.2 -1.4-.8M535.8 754.9l-3.5-2.6 .5-2.6 -1.2-1.6 -.1-1.3M535.8 754.9l-2.7 1.9 -2.1-3.3 -1.9 .7 .9 4.1 2.8-.6 .3-.9M535.8 754.9l.5 0 1.1-4.3 2.9 .6 -2.2 4.9 -.3 .2 -1.5-1.4M529.3 745.6l-.5-.1 -3.2 4.2 -1.6-1.5 1.1-4.3 3.7 1.6M558.5 726.9l-2.3-1.3 -.4-1.5 -3.2-1.4 -1.6 2.9 .3 1.5 2.5 1 2.4-2.5M562.5 724.3l0-.4 -2.6-.5 -2.4-2.4 -1.5 2.8 3.9-.4M537.7 736.6l1.9-2.4 -1.9-3.2 -3.3 2.4 .1 1.3M530.9 723.8l2.5 .2 1.7 1.7 1 2.6 1.5 .7 2.1-1.1 3 2.4 -.9 3.5 -.1 .2 -2.1 .2M540.2 727l-.5 .9M540.2 727l.3-2.4 -2.5-.8 -2.9 1.9M540.2 727l3.8 .1 .5-2.6 -2.9-1.1 -1.1 1.2M528.3 740.3l-2.9 1.2 -2-3.3 .7-1.1M525.4 741.5l-.4 2.1 .1 .3M529.3 736.7l-1.1-2.1M529.4 736.7l1.3-.2 .4 .2 1.5 4.5M535.7 738.7l-.4 1.4M528.5 731.7l1.9 .1M523.4 731.3l.1-.1M523.4 731.3l-.1 .7 .5 1.1M523.4 731.3l-6.2-1.9 -.6 2.2 .2 .6 2.9 2.1 3.6-2.3M523.4 738.2l-3.9 .5 -.7-.4 .9-4M459.8 723.5l1.1-.1 2.5-3.2 -3.7-2.9 -.8 .2 -1.2 4.6 -4.5-1 1.9-3.8 -1.1-1.8 1.2-2.3 -2.5-2.6 1.9-1.8 1.5-.5 .5-1.1 -2.6-3.3M459.8 723.5l-1.9-1.1 -.2-.3M459.8 723.5l-1.9 4.2 .2 .5 3.5 1.2 1.5-2.4 -.3-1 -1.9-2.6M499.8 720.3l-1.5-.3 -3.1 .2 -1.1-1.7 1.4-3 1.8 .4 1 4.1M499.8 720.3l.7 2.8 0 .1 -3.1 3.5 -1.8-2.1 -1.3-2 -2.8 .8 -1.5-1.6M499.8 720.3l1.7-2.1 4.5 2.2 -1.4 2.8 -4.1-.1M501.5 718.2l.1-.7M497.4 726.7l0 .5 1.5 1.3 5.6 .4 -4-5.7M497.4 727.2l-1.6 1 0 4.2 2.3-.2 1.5 2.9 -2.5 .9 -3.5-1.4 2.2-2.2M474.6 744.8l-3 1.2 -1.6-2.7 -1.2 1.3 0 4 1.5 .9 1.3-3.5M474.6 744.8l-1.5-2.6 -3.1 .9 0 .2M474.6 744.8l.2 .1 1.3 1.4 3.8-3.4 -.2-.8 -2-1.8 -2.9 4.6M513.2 772.1l1.7-.5 3.1 2.1 2-1.3 3.5 3.2 -1.6 2.1 -3.9-3.5 0-.5M513.2 772.1l-.3 3 1.5 2.2M513.2 772.1l-2.5-1.4 .2-1.7 -1.6-3.1 -2.3-.3 -.9 3.6 .2 1.9 1.7 1.1 2.7-1.5M512.9 775.1l-3.2 .6 -.7 2.9M516.9 776.3l1.1-2.1M568.4 757.9l-.7 3.6 -2 1.4 1.2 1.8 4.3-.3 -.1-.8 -3.4-2.1M568.4 757.9l.1 0 5.4-2.4 2.1 4.2 0 .1 -2.5 .7 -5-2.6M568.4 757.9l-.2-.2 -.4-.1 -3.4-5 1.9-.4 2.9 1.3 -1 4.2M568.3 767.3l-1.4-2.6M568.3 767.3l2.4-.1 .9-1.4 -.4-1.4M568.3 767.3l-2.8 1.9 -1.9-2.9 0-2.6 1.4-.7 .7-.1M565.5 769.2l-.2 1.2 -1.6 1 -3.8-1.9 .3-1.6 3.4-1.6M576.9 759.6l-.2 0 -.7 .1M576.9 759.6l.4-.3 3.5-1 .3-4.5 -1.8-.1 -2 5.6M576.9 759.6l5.8 3.6M576.7 759.6l2.5 4.7 -3.3-1.1 .1-3.4M543.8 771.7l.1-1 -1.9-2.9 -3 .3 -.1 2.9 2.6 2.6 2.3-1.9 2.1 1.3 -1.9 5.1 -2.7-3.9 0-.2 .2-.4M558.9 710.9l1.1 4.9 -.9 .8 -3.3-1.5M560 715.8l1.4-.1M559.1 716.6l-.3 1.9 4.8 1.4 .3 1.7 -1.2 1.6 -4.5-3.5 .6-1.2M569.4 719.3l.1-2.6 .8-.2 1.5-3.6 3.1 .2 -.7 3.6 -3.9-.2M565.4 721.7l-1.5-.1M562.5 723.9l.2-.7M568.7 726.7l.7 0 4.1-2.8 .1-.3M567.7 727.1l-1.2 3.4M573.9 755.5l.1-2.2 2.7-1.1 .6 0 2 1.5M574 753.3l-2.3-1.5 1.7-5.2 -.9-1.3 -1.8 .2 -2.4 2.8 0 .4 3.3 3.1 .1 0M576.7 752.2l-1.7-5 -1.6-.6M541.3 774l-6.3-.8 0-1.1 3.9-1.1M535.6 767.2l.1-.1 3.1-6.4 1.9 .9 0 .3 -3.5 5.2 1.8 1M535.6 767.2l-.7-.9 -1.1-2.2 3.2-3.9 .6-.1 1.2 .6M535.6 767.2l-1.4 3 .8 1.9M535.7 767.1l1.5 0M537 760.2l-3.1-1.2 -1.1-1.3M540.7 761.9l2 3.6 -.7 2.3M576.3 739l-.4 .4 -5.5 .2 -.2-.2 .7-3.1 4.6 .1 .8 2.6 2.1 .6 .3 3.8 -1.5 .4 -2.6-1.1 1.3-3.3M580.8 758.3l3.5 1.1M594.6 694.6l-3.8 .2 -2.4-1.9 -.2-1.2 4.5-1.3 1.1 1.2M553.8 674l-3.1-1.7 -1.2 .4 -.7 1.2 1.6 3.8 .3 .1 2.9-1.4 -1.1 6.2 -1.2-.1 -.6-4.7M572 675.4l.6 4 3.8 .3M572 675.4l2.3-.9 1.2-.1M572 675.4l-.4-.3 -1.2-3.6 1.4-2.3 1.9 .2 .6 5.1M572.6 679.4l-.3 .3M577.4 673.1l-1.6 1.2M577 661l2.5-1.9 .7-.2 2.2 3.3 -.5 1.3 -3.2 .2M571.6 675.1l-4.9 1.2 -.3-.2 -.3-3.7 -1.7-.9 -.5-2.4 .6-1.5 2.6-.3 .7 4.2 -1.7 .9M570.4 671.5l-2.6 0M564.4 671.5l-1.4 .9 -1.1 1.6M563.9 669.1l-3.9 0 -.5 1.2 3.5 2.1M567.1 667.3l1.6-.9M564.5 667.6l-.9-1.6 3.1-3.2 1.4 .9M575.3 665.7l-2.2-1.7M571.8 669.2l-1-1.9M573.7 669.4l.1 0M561.2 679.1l-3.1 3.3 1 2.3 -.1 1.5 -2 1.4 -3-2.2 -.8-2.6 2.6-1.1 2.3 .7M561.5 679.2l1.8 1.7 1.6-.4 3.6 2 -2 2 -3.1-2.4 -.1-1.2M564.9 676.4l1.5-.3M566.7 676.3l.4 1.8 3.1 3 .6-.3M574.5 687.4l0 0 -2.1-.4 -4.7 3.9 0 0 4.8 2.1 .7-.1 1.3-5.5M574.5 687.4l.1 0 4.5 4.5 1.3-.5 .1-.2 -1.3-5 -4.6 1.2M574.5 687.4l.1-1.8M567.7 690.9l-1.6-1.4 0-2.4 5.1-1.1 1.2 1M573.2 692.9l.1 .1 1.5 3.7 1.8 1 1.8-1.7 0-3.3 -5.1 .3M562.6 690.7l-2.2-3.7 3.1-1 2.6 .9 0 .2M562.6 690.7l3.5-1.2M562.6 690.7l-.3 .4 -2.9 .8 -2.5-.5 -.8-.6 .9-3.2M558.1 697.7l1.9-.5M465.9 710.1l-2.1-.1 -2.2-4.9 2.4-.7 2 1.2 .6 4.3 -.7 .2 -1.1 4.2 -1.6 .4 -2.1-.4 1.1-3.5 1.6-.8M466 705.6l2.2-1.1M466.6 709.9l1.5 .4 1.5 4 4.3-.9 .7 .5 .2 3.7 1.1 .5M467.4 697.3l-1.8-.2 -.4-3.3 .1-.2 -1.3-1.8 .6-3.5M479.9 694.4l-.6 1.4 -.3 2.5 -.6 .7 -4-.9 4.9-2.3M480.9 694.7l5.4-3.6 1.3 .9 0 .6M461.5 687.2l-.7 2.7 3.2 1.9M467.1 688.4l.7 1.7M491.8 713.1l-1.5-1.3 -1.1 .2M491.8 713.1l-1.2 3.7M491.8 713.1l2.6-.2M490.3 711.8l.7-3.4 -2.5-1 .3-3.7 -3.3-.1 .1 4 .5 .6 2.4-.8M491 708.4l.1-.1 3.3 2.4M485.3 703.4l.2 .2M485.3 703.4l-.1 0 -3.5 1 -1.3-.3 .2-1.7 1.3-2.1 .6-.3 2.7 3.4M485.3 703.4l1.5-5M483.6 707.3l-2.4 1.6 .4 1.5 3 1M483.6 707.3l2 .3M483.6 707.3l-1.9-2.9M485.9 710.2l.2-2M487 715.2l2 2M488.4 697.9l1.9 .8 -.3 4.1 -1.2 .9M484 698l-1.5 2M479.6 691.6l-2.5-3.7 4.1-.6M545.5 682.5l.1 2.1M549.1 687.7l0 0 -.3-1.6M511.2 698.9l-2.6 1M511.2 698.9l2.1 .5 1.8-3.3 1.6 1.2 -.1 3.1 -2.8 .6 -.5-1.6M511.2 698.9l-1.1-3.7 -.6 .1 -2.4 1.4 -.8 1.6M506.7 712.5l0 .3M508.8 709.6l1.7-.5 1.2-2 .1-.4 -1.3-1.2M502.8 708.7l3-2.5M504.5 699.2l1.7 4.8M521.2 715l.5-2.2 -4.2-1.5 -2.7 1.7 2.5 2.9 -4.2 2.2 -.1-3.2 .2-1.3 .6-.6 .5-.1 .5 .1M510.5 709.1l3.3 3.9M511.7 707.1l3.2 1.7 -.6 4.1M511.8 706.7l2.9-2.7 -.9-2.2 -4.7 1.1M585.6 722.7l2.6 .5 -.6 4.2 -2.6 .4 1.8 4.3 2.9-3.7 -2.1-1M585.6 722.7l-.8-1.3 3.6-3.9 -1.1-2.1 -3.7 .1M585.6 722.7l-1.6 3.1 .3 1.5 -2.3 1.9 -3.5-1.6 1.2-2.7 4.3 .9M537.6 689.3l-2.6 .4 0-3.8 -3.6 .1 1 3.5 -1.8 .7 -.6 3.7 4.3-1.8 -.1-1.8 -1.8-.8M537.3 684.8l-.9-.1 -.4-.8 -3.8-.7 -.4 .4 4 1.5 .6-.4M535 689.7l-.8 .6M510.1 695.2l1.7-1.6 3.3 1.3 0 1.2M530.3 695.8l-1-1 .7-.9M529.3 694.8l-1.1-.1 -2-3.7 -3.1 1.9 .8 2.9 .3 .2 3.4-.9 .6-.4M527.1 698.8l2.9 .5M527.1 698.8l-1.6 1.3 1.7 3.2M527.1 698.8l.5-3.7M529.9 701.8l.6-1.5M534.7 692.7l-.4-.6M578.9 709.3l2.3-1.4M578.9 709.3l0 2.2M578.9 709.3l-2.5-2.1 -2.8 2.5 -1.9-.1 0 0 .2-3.2 2-.7 2.5 1.2 0 .3M581 706.6l-2.6-2.8 2.4-1.3M578.4 703.8l-.8 .1 -1.9-2.3 1.1-2.9 2.8 1M570.1 704.3l2.5-2.3 -1.8-3 4-2.3M583.8 705.1l3.2-2.7 .9 2 -1.6 4.6M578.8 719.5l1.1 2.4 4.2-1 -1.4-4.4M578.8 719.5l1.3-2.7M578.8 719.5l-3.2-.1M579.2 723.4l-4.8-.3M579.2 723.4l.7-1.5M579.2 723.4l.5 1.5M575.3 712.4l3-.3M575.3 712.4l-.4 .7M575.3 712.4l-1.7-2.7M574.4 716.8l4.2-1.3M574.4 716.8l.3 .9M574.4 716.8l-.2-.1M545.1 712.1l1-1.6M545.3 715.7l.2 .2M549.9 715.6l-1.6-4M549.9 715.6l-1.5 .7M549.9 715.6l1.6 .2M550.3 709.6l2.9 1.1M493.5 695.1l2-.8 -2-2.7M543.1 709.5l-2.9-4.3 .8-.7M509.7 718.1l3.1 .8 .3-.8M509.7 718.1l.1-1.1 -.7-2.8 4.1-.6M509.7 718.1l-2.2 1.2 -.4 .7 -1.1 .4M507.5 719.3l-1.6-4M521.3 725.7l2.1-2.8M527.8 708.9l-.1 .6 .3 2.2M509.1 714.2l-2.3-1.2M509.8 717l3.2-2.1M533.2 745.2l5 .3 .5-.4 .3-2M557.9 730.2l-4 .3 -1.1 2 .5 1 1.8 1 3.4-1.2M558.7 731.6l3.6-1.3M505.6 734.9l.7 .4 2.9-2 -4.6-3.5 0-.8 .5-.5 5.6 2.8 -1.4 2 -.1 0M505.6 734.9l-1.3-4.3 -2.7 2.4 -2.7-3.2 -.8 2.4M505.6 734.9l-3.2 1 1.2 3.9 -1.1 1.3 -2.5-1.7 .1-4.3 .6-.1 1.7 .9M520.9 748.7l-.8-1.1 3.3-4 1.6 0M520.9 748.7l3.1-.5M520.9 748.7l-.7 2.5 2.7 1.7 .2 2.7 -2.4 1.3 -2.3 0 0-4.1 .2-.5 1.6-1.1M532.8 749.7l4.1 .3 1.3-4.5M531.6 748.1l-4.2 2.4 -1.6-.5 -.2-.3M532.3 752.3l-1.3 1.2M513.2 754.3l.1-1 -.6-2.1 -.3-.2 -3.2 1 .6 4.5 3.4-2.2 3.4 3.6 1-.3 .8-.7M513.3 753.3l5.1-.5M516.6 757.9l-.8 .7 -1.2 2.9 -4.4-1.5 .1-2 5.5 .6M517.6 757.6l2.3 4.8 2.6-2.8 -1.8-2.7M542.7 730.3l3-.9 -1.7-2.3M541.8 733.8l4.4-.3 .2-3.5 -.3-.6 -.4 0M541.7 734l1.4 2.9 -2.3 3.3M530.7 736.5l.5-4.3M531.3 736.6l-.2 .1M532.7 718.3l3.5 1.1 -1-5.1 .8-.6 1.9 1.5 -.3 4 -1.1 .4 -.3-.2M536.1 728.3l-2.6 1.1M534.4 733.4l-1.7-1.8M537.7 731l-.1-2M533.4 724l2.9-3.7 1.7 3.5M516.8 732.2l-1.1 3.8 2.7 2.3 -2.1 1.8 -4.8-2.8 .2-.4 1.5-1 2.5 .1M492.8 718.2l1.3 .3M485.1 727.3l-4 1.3 -1.2-.7 .5-2.4 1.8-1.9 3.4 2.7 -.5 1 .9 3.2 2.3 1 2.6-.7 .6-1.7 4.3-.9M478 720.6l-.3 .5 .7 3 -1.7 1.5 -1.7-2.8 2.7-1.7M479.1 720.4l3.1 2.3 3-2.4M480.4 725.5l-2-1.4M477.6 732.2l0-3 -4.3 .3 -1-1.3 1.2-1.7 3.2-.1 1.5 1.9 -.6 .9M477.6 732.2l-.9 1.7 -.7 .2 -2.7-1 0-3.6M477.6 732.2l3.3-.2 -.2 3.3 -1.4 .3 -2.6-1.7M481.1 728.6l.8 2.5 1.8 .9 2.3-1.5M479.9 727.9l-1.7 .4M474.8 717.6l-2.4 1.2 -3-3.9 .2-.6M474.6 713.9l4.3-.6 .2 .1 .6 1.1M455.2 713.2l1.3-.6 .7-.7 .1-.9 3.2-1.1 -1.2-3.8 -2.7 1.1M452.7 710.6l-2.6 .3M459.3 706.1l1.1-1.2 1.2 .2M464.8 714.3l2.7 1.8 -2.5 2.7 -.7 1.4 2 1.7 .6 .3 .4-.1 1.9-2.1 -1.4-4 -.3 .1M473.7 722.9l-.2 3.6M473.7 722.9l1.3-.1M473.7 722.9l-.8-.4 -.7-3.2 .2-.5M472.9 722.5l-1 .4 -4.6-.8M473.3 733.1l-.9 .4 -1.7 2 .2 2.4 -2.8 1.8 -1.6-2 1-3.6 3.2 1.4M472.4 733.5l-4-3 1.6-2.6 -.6-.9 -1.8-1.3 -2.3 1.2 1.4 4.6 .2 .1 1.5-1.1M502.9 751.4l.6-.3 0-.9 3.5-2.4 .7 .9 -.1 2.7 -1.9 1.1 -2.2-1.4M502.9 751.4l-3.8-3.2 -.1-1.1 .7-1 3 1.5 3.6-1.8 .7 2M502.9 751.4l-1.9 1.3 -2.6-.3 .7-4.2M499 747.1l-2.5 .6 -1.7 4.7 -.8-1 .1-4.5 2.4 .8M497 739.8l3-.4M497 739.8l.1-3.8M497 739.8l-.1 0 -.3 1.7 -4 1.2 -.7 2.6 .7 .3 6-1.5 -2-2.6M499.6 735.1l.5 0M491.5 729.1l-.2-.4 0-1.9 -.3-2.2 -4.4 .5 -.6 .9 5.3 2.7M493.6 734.6l-.5 0 -2.2-3.8M494.3 722.6l.9-2.4M495.6 724.6l-4.3 2.2M491.5 723.4l-.5 1.2M495.5 715.5l-.6-2.3M497.3 715.9l3.3-.7M488.8 774.2l4.7-.8 .1 .2 -.3 4.9M491.8 766.3l.1-.5 -3.4-3.5 -2 .9 .9 1.4 3.9 2 .5-.3 2 2 2.5 .1 1.7 1.6 0 .1 -4.6 2.2 -.3-.6 .7-3.4M484.3 763.1l2.2 .1M484.3 763.1l-.2-4.2 1.4-1.7 1.7 .6 4-3.6 1 .4 -1.7 3.9 -1.5 .4 -1.8-1.1M484.3 763.1l-1.6 1.6 -2.2-.9 -2.5 2 .8 1.7 3.7-2 .3-.4 -.1-.4M484.1 758.9l-2.4-.2 -2-3.3 -2 .3 -.5 1 2.3 3.2 2.2-1.2M485.5 757.2l-.2-1.3 4.8-2.3 1.1 .6M470.5 749.9l-.1 .5 -3 3.3M470.5 749.9l-.2-.4M470.5 749.9l2.9-.2 2.8 3.2 2.7-2.6 -1.4-2.3 -1.2-.9 -2.9 2.6M464.7 742.1l1 2.7 -.3 2.9 3.4 .9M464.7 742.1l3.2-1.8 2.1 2.8M464.7 742.1l-1.5-.3 -.9-3.4 .8-1.6 -.1-.9 4.2-2.2 .3 .4M465.7 744.8l3.1-.2M465.4 747.7l-1.6 .9M467.2 733.7l-.3-2.1M482.5 745.4l-5 2.6M482.5 745.4l.5 .2 -2.5 5.1 0 0 0 .2 -.2 3.9 4.5 .2 .1-.7 -4.4-3.4M482.5 745.4l-2.6-2.5M467.9 740.3l.2-.6M474 739.4l-.9 2.8M474 739.4l.8-.3 2.8 1 .1 .2M474 739.4l-3.1-1.5M496.9 739.8l-4.5-1.8 -.8 2.6 1 2.1M493.1 734.6l-1 1.7 .3 1.7M489.7 748.6l-.2-1.9 2.4-1.4M489.7 748.6l4.3 2.8M489.7 748.6l-.9 2.3 1.3 2.7M489.5 746.7l-1.8-.7 .1-2.6 0-3.1 -.2-.1 -3 2.5 -.1 2.9 .8 .4 2.4 0M474.8 739.1l1.2-5M477.6 740.1l1.2-1.9 .5-2.6M514.7 764.6l-1.3 3 2.3 2 2-1.7 -3-3.3 -.1-.7 0-.1 5.4-.7 1.3 1.6 -.3 .9 1.6 3.7 -.3 1.1 -2 1.4 -2.5-3.9 3.2-2.3M513.4 767.6l-2.5 1.4M509.7 775.7l-1.7-3.3 -1.9 2.5 -.5 2.4M508 772.4l0-.2M563.7 757.7l4.1-.1M563.7 757.7l-.1 .2 1.4 5.1M563.7 757.7l-1.5-3.8 -2 .7 -.3 4.6 -2.2-.2 -1.7 1.3 -3.2-3.7 -1 2.7 2.9 2.6 .9-.5 .4-1.1M573.5 760.5l-2.4 3.1M571.9 771.4l.9 .5M571.9 771.4l-1.2-4.2M571.9 771.4l-3.7 1.2 -2.9-2.2M571.6 765.8l1.3 .1 3.1 4.4M543.9 770.7l1.3-.9 1.3-4.8 -3.8 .5M544.8 779.2l3.6-1.7 .4-2.2 -.9-1.3 -2-1M553.7 771.1l-1.1 .5 -3.2-.8 -.4-1.9 -3.8 .9M553.7 771.1l2 2.2 -1.6 2.5 -3.4-1.1 1.9-3.1M553.7 771.1l.3-2.4 1.6-.5 3.3 1.9 1-.6M552.7 718.3l5.2 1.6 -.4 1.1M552.7 718.3l-.7-2.2M552.7 718.3l-.6 3.5 -4.6 .2 -.2-.4M557.9 719.9l.3-.2M556 723.8l-.2 .3M569.5 716.7l-.8-.5 -4.5 1.1 -.6 2.6M570.4 739.6l2.9 4 1.3-.9M570.2 739.4l-1.5 .6 -.2 3.6 2.2 1.9M573.5 723.9l1.9 3 -4 2.9 -2-3.1M571.4 731.9l-.7 .8 -.5 2.4 .7 1.2M571.4 731.9l4.5 3.6 -.4 .9M571.4 731.9l.4-.9 -.4-1.2M575.9 735.5l.5-.6 .9-3.1 3.4 .6 .7 3.4 2.4 .5 1.4-.1 .5 2.2 5.6 0 -1.4-2.1 -2.8-2.5 -.1 0 -1.8 2.4M565.5 735.5l4.7-.4M565.5 735.5l1.8 4.1 1.4 .4M565.5 735.5l-.9-.5M570.7 732.7l-4-1.2M568 748.9l.3-.2M568 748.9l-1.7 3.3M568 748.9l-3.9 .4 .2-3.3 -3.7-.6 3.8-4.1 1.2 3.2 -.6 1.1 -.7 .4M541.3 774.2l-2 2.4 -4.4-1.1 -.9 3.3M544 778.1l.5 1.1M544.3 779.3l-5.1-1.6 -1 2.6M583.8 736.3l-2.4 4 -2.2-.9 1.7-3.3 -4.5-1.2M575 747.2l1.6-.4 .6-3M573.3 743.6l-.8 1.7M581.1 753.8l.9-.2 -1.9-5.3 2-.3 2.1 1.8 -.3 3.6 -1.9 .2M577.3 752.2l2.3-3.9 .5 0M583.9 753.4l.6 .5M584.2 749.8l2.7-1.7 1.6 .4M586.9 748.1l-1.4-4.4 -2.9 2 -2.5-1.7 2.3-2.7 3.3 .7 .2 .3 -.4 1.4M588.4 692.9l-1.6 3.1 .2 1.1 3 .2 .8-2.5M586.8 696l-3.8-1.8 -1.1 2.4 .5 1.1M579.7 685.7l-.5 .5M583.3 686.3l1 1.5 1.3 .6 -2.9 4.8 .3 .4 5-2.1 -1.4-2.9 -1-.2M584.3 687.8l-3.8 3.4M592.7 690.4l0-1.4 -4.3-2.4 .3-1 2.5-2.6 2.9 2M588.2 691.7l-.2-.2M581.9 696.6l-3.5-.6M583 694.2l0-.6M587.9 679.1l-.9 .3M589 676.2l2.7-.6M591.1 682.5l.1 .5M585 683l3.7 2.6M579.5 659.1l-2.2-3.9M582.7 668.8l1-2.3 4.7 2.5M586.6 672.3l1.3-1.4M571 659.2l-3.9 .1 -1.3 1.6 .9 1.9M567.1 659.3l-.4-2.4 3.4-2.6 1.7 2.3M565.8 660.9l-2.4-.3 -1.4 1.9 -.9 1.6 .6 .7 1.9 1.2M561.7 664.8l-1.7 4.3 0 0M566.7 656.9l-2.1-1.4 -2.3 3.4 1.1 1.7M567.1 678.1l-2.2 2.4M570.2 681.1l-.6 .9 1.6 4M556.5 672.3l-1.4-4.5 2-1.3 2.9 2.6M557.4 672.4l2.1-2.1M567.7 690.9l-.7 2.8M572.5 693l-1.5 1.9M584.9 700l.5 .1 1.6-3M576.8 698.7l-.2-1M570.8 699l-1.7-.7M572.6 702l.2 0 2.9-.4M562.6 683.4l-3.5 1.3M562.6 683.4l.9 2.6M562.6 683.4l.8-1.3M560.4 687l-1.4-.8M562.3 691.1l.3 1.5M559.4 691.9l.7 4.4M550.7 696.2l-3.7-2.6 0-.7M550.7 696.2l-2 1.4M550.7 696.2l1-.1 1.5 2.9M548 692.3l3.7 .7 2.1-2.1 1.9 0 -.9 4.1 -2.9 .4 -.2-2.4M547 693.6l-.6 1.7M551.7 696.1l.2-.7M556.9 691.4l.9 6.2M556.1 690.8l-.4 .1M557 697.9l-2.2-2.9M473.9 713.4l0-3.9 -3-1.1 -2.8 1.9M469.5 696.4l-.8-2.4M472.8 697.3l.7 .9 .1 1.1 -.8 3.1M491.1 708.3l2.6-2.7 -3.7-2.8M479.1 713.4l2.5-3M478.9 713.3l-1.7-3.9 2.7-1.4 -.2-3.4 -3-.2 -.7 .2 -.6 4.1 1.8 .7M481.2 708.9l-1.3-.9M455.6 688.7l4.3 2.3 .9-1.1M465.3 693.6l1.2-.7M459.7 691.9l.2-.9M459.7 691.9l.9 2.6 4.6-.7M459.7 691.9l-5.2 1 -.4-.2M555.7 677.9l.1 3.8M553.8 676.2l-.2 .2M552.5 682.6l.7 .2M551.5 688.4l2.5-3M551.5 688.4l-2.4-.7M551.5 688.4l2.3 2.5M548.9 681.6l-1.4-3.1 2.9-.8M550.9 682.7l.4-.2M505.7 704.8l-4.4-1.6 -.9 3.7M513.1 719.5l-.3-.6M513.1 719.5l4.4-.7M513.1 719.5l0 2.1M517.8 716.2l-.5-.3M514.9 708.8l2.4-1.1 .4 .7 -.2 2.9M592.5 724.8l3 5.7M590 742.3l-4.1 0M580.9 736.1l.5-.3M592.2 738.3l1.1-3.6 2.2-.2M591.7 738.7l-.4-.3M585.7 738.4l0 3.6M589.9 736.3l2.7-2.4 -.9-1.6 .7-1.3 3.1-.5M586.7 733.1l.3 .7M586.7 733.1l-4.8-1.7 -1.2 1M586.7 733.1l.1-1M587.1 733.8l4.6-1.5M547.5 678.5l-1-.5 -2 3.2M531.4 686l-1.2-1.2 1.6-1.2M535 685.9l.8-.8M530.6 690.2l-4.1-1.2 -.3 2M570 704.4l1.9 2M584.8 721.4l-.7-.5M491.9 691.5l-1.4-.5 -2.9 1M540.7 711.9l-4.6 1.5 -.5-2.6M540.7 711.4l-1.6-1.9M540.2 705.2l-1.2 .7M540.9 703.7l-4.8-3.6M535.4 700.2l-.4 4.8M507.1 720l2 2.3M504.6 723.2l1.6 3.3 2.4-1.5 4.5 2.1 -1.3 1.8 -6-1.4 .4-1M508.6 725l.3-1.2M525.6 705.6l-2.3 .2 .3-5.6 -3.3-.3 -.3 .7 -.3 3.3 3.4 1.9 .2 0M525.5 700.1l-.4-.2 -.9-3.9M527.7 709.5l-5.6 1.5 -.3 1.7 1.4 .1M546.4 730l4.3 1.3 -.6-3.2 -2.9-.1 .1-3.2 -.4-.8 -2.4 .5M546.2 733.5l.9 1 4.3-2.4 -.7-.8M555.1 734.5l.8 3.1 -3.9 1.3 -.8-2.4 2.1-3M558.2 738.7l-1 .2 -1.3-1.3M513.4 732.6l-2.2-1.6 .6-2.1M513.4 732.6l3.2-1M513.4 732.6l-.2 3.3M513.1 727.1l1.5-.6M517.2 729.4l0-.1M510.3 738.8l-3 0 -.4 .3 .2 4.1 3.9-2.7 -.7-1.7 1.2-1.5M507.3 738.8l-1-3.5M506.3 745.8l.1-.1 -4.5-3 .6-1.6 4.6 2.3 .2 1.3 -.9 1M502.7 747.6l.8 2.6M499.7 746.1l0-1.2 -1.1-.8M499.7 744.9l2.2-2.2M512.2 744.5l.5-1 -1.7-3M512.2 744.5l.1 .2 0 .7 3.6 3.6 1.5-1.7 -5.1-2.6M512.2 744.5l-4.9 .2M512.7 743.5l1.9-.7 1.7-2.7M511.4 748l1 3M511.4 748l-3.7 .7M511.4 748l.9-2.6M515.7 749.8l.2-.8M515.7 749.8l-3 1.4M515.7 749.8l2.9 2.5M518.8 746.6l1.3 1M518.8 746.6l-.1-.4 3.5-2.9 -2.2-1.6 -2 2.8 .7 1.7M518.8 746.6l-1.4 .7M523.4 743.6l-1.2-.3M525.8 750l-1 1.8 2 3.2 2.2-.8 -1.6-3.7M529 754.2l.1 0M533.9 759l-2.8 3.6 -1.7-3.4 .6-.9M521.3 764.7l3.7-.9 -.7-3.7 1.5-2 2.8 1.2 -3.2 4.7 -.4-.2M520 763.1l-.1-.7M541.1 714.4l-3.2 .8M536.3 720.3l.2-.7M541.6 720.2l0 3.2M540.4 719.4l-2.8-.2M519.5 738.7l.5 3M518.8 738.3l-.4 0M514.6 742.8l3.4 1.7M487.2 720.7l-.6 4.4M485.6 726.3l.4-.3M482.2 722.7l0 .9M457.3 711l-1.2-2.7M462.2 710.8l-1.7-.9M454.6 708.8l-2.9-2.1M464 704.4l.7-2.2 1.7-1.1 1.6 .3M460.4 704.9l-1.3-3.4 2.4-2.5 3.2 3.2M457.9 722.4l-2 2.7 -3.1-1.9M454 715.5l-4.1-.7M455.1 717.3l3.7 .2 -2.3-4.9M453 721.2l.2-.1M462.8 726l3.5-4.1M476.7 725.6l0 .8M472.3 728.2l-2.3-.3M469.4 714.9l-1.6 1.1M472.2 719.3l-3 .7M471.9 722.9l-2.5 4.1M463.1 736.8l3.4 .9M462.1 734.5l-4.1 1.5 1.1 2.3 3.2 .1M462.1 734.5l.9 1.4M462.1 734.5l-.2-2.5 .3-.9 4.5 .4M509.8 756.5l-.2 .3 -4.1-.1 .2-4.2M509.2 752l-1.6-.6M498.9 728.5l0 1.3M501.6 733l-.9 2M504.3 730.6l.3-.8M504.5 728.9l.1 .1M497.3 712.4l3.3 1.4M505.8 727.5l-.7 1M511.2 731l-.5 .3M491.3 766.6l-.4 .3 -3.5 .2 -1.9 1.2 .5 3.3M487.4 764.6l0 2.5M480.5 750.7l-1.6-.4M476.2 753.2l0-.3M476.2 753.2l-3.4 1.3 -2.4-4.1M476.2 753.2l1.5 2.5M474.4 758.5l2.9 3.5 1.4-.1 .8-2M474.4 758.5l2.8-1.8M474.4 758.5l-.2 0 -2-1.8 .6-2.2M478.7 761.9l1.8 1.9M477.3 762l-2.6 2.4M488.5 762.3l.5-.9 0-2.5M489 761.4l3.9 .6 .1 2.5 -1.1 1.3M490.5 758.5l3.2 1.7 -.8 1.8M492.2 754.6l1.3-.3 1.1 5.5 .9 0 2.4-3.8 -1.3-2.6 -1.6-.2 -1.5 1.1M463.2 741.8l-2.4 1.5 -.8-.7 -2-2.6 1.1-1.7M476.1 746.3l.2 .8M479.7 742.1l3.7-2.8 .3-.9 -4.9-.2M492.6 745.6l1.5 1.3M488.3 731.5l-.9 2.4 -3.5 1.7 -.2 .6 .4 1.7 2.6 .7 2.4-2 -1.7-2.7M494.8 752.4l.2 .8M488.8 750.9l-3.1 1.3 -.8 2.1M485.7 752.2l-1.1-1.9 -4.1 .4M485.3 755.9l-.5-.9M484.6 750.3l.7-4.3M483 745.6l1.5 0M524.8 771.9l.7 3.2 -2 .5M524.8 771.9l-2.5-1.5M524.8 771.9l2.7-2.5 -1.3-1.5 -.5-3.7 4 0 .2 1.8 -1.9 3.5 -.5-.1M525.5 775.1l1.1 .4 2.5-1.3 .1 .1 3.1 5M514.9 771.6l.8-2M517.7 767.9l.1 0M506.1 774.9l-2.2-.7 -1.7 2.9M503.9 774.2l-.8-2.6 -1.2-.2 -2.3 .8 -.5 1.7 -5.5-.3M502.4 768.2l.5-.4 1.3-2.3 -3.7-1.5 -.8 .5 .5 2.2 2.2 1.5 -.5 3.2M503.1 771.6l3.2-.5M509.6 756.8l.7 1.2M505.5 756.7l-1.1 .9 -.4 2 -2.3 1.3 -2.4-1 -.4-3.2 3.6-.3 1.9 1.2M569.2 753.5l2.4-1.7M564.4 752.6l-1.3-.2 -.9 1.5M575.9 763.2l-.4 1.9 -2.6 .8M580.2 765.3l-1-1M563.6 763.7l-2.4-.9 -.6-3.1 3-1.8M558.6 765.1l1.6 2.8M558.6 765.1l.3-1 2.3-1.3M558.6 765.1l-1.6 .9 -1.4 2.2M558.9 770.1l-.1 .3 -2.2 2.9 -.9 0M549 768.9l1.4-2.7 -3.9-1.2 -.3-3.4 1.5-1.8 2 .9 1.8 3.9 -.6 1.4 -.5 .2M546.5 765l0 0M560.1 781.9l-1-2.4 -.5-.2 -1.4-5.5 2 .3 .4 4.9 -.5 .5M547.9 774l1.5-3.2M569 776.7l-1.1-2.3 .3-1.8M562.1 782.3l2.2-3.6 -2.1-1.9 .7-1.5 1.9 .4 2.6 3.8M547.2 728l-1.1 1.4M552.1 721.8l.5 .9M547.5 722l-.6 2M547.3 724.8l3.7 .8M571.8 712.9l-.3-2.9 -4.2 2.5 1.4 3.7M564.2 717.3l-1.3-1.3M568.3 748.3l-3.3-2.7M568.5 743.6l-2.9 .9M567.3 739.6l-2.9 1.5 -2.5-1.7M575.4 726.9l1.8 1.5 -.4 2.4 -5 .2M561.4 739.6l-1.3 3.8 -3.6-2.7 -1 1.1 -.1 4 4.6-.1 .3-.3 -.2-2M564.4 741.1l0 .2M582.1 748l.5-2.3M579.6 748.3l-.8-1 -2.2-.5M591.6 707.2l-.5-1.7 -3.2-1.1M590 697.3l1.7 1.9 1.7 .1M585.4 700.1l1.6 1.8 0 .5M586.6 688.6l1.8-2M582.7 693.2l-2.3-1.8M592.7 689l1.7-3M578.4 692.7l.7-.8M580.2 658.9l1.6-1.6M581.9 663.5l1.9 2.5 2.2-1M582.4 662.2l1.2-1M570.1 654.3l-.2-.9 .7-2 4.8 3.3M575.3 656l.3-.4M569.6 682l-1.1 .5M566.1 686.9l.4-2.4M566 696.6l-.7 .1M572.8 702l1.1 3.7M577.6 703.9l-1.2 3M470.9 708.4l-.1-2.8M473.9 709.5l1.5-.8M476.3 693.3l-1.3-5.9 1.2-.1 2.5-3.2 -3.2-2.1 -1.3 5.3 .8 .1M473.6 694.1l-1.3-1.5M480.6 702.4l-2.5-2.1 -.9 .6 -.5 3.5M480.4 704.1l-.7 .5M481.9 700.3l-2.9-2M477.2 700.9l-3.6-1.6M478.1 700.3l.3-1.3M473.5 698.2l.9-.1M496 706.8l-1-1 -.9-.3 -.4 .1M495 705.8l2.2-2.9 .9-1 -4.2-1.5 .1 1 3.2 1.5M501.3 703.2l-.3-.6M498.8 701.5l-.7 .4M494.1 705.5l-.1-4.1M490.3 698.7l1.2-.4M492.6 698.4l1.3 2M503 694.6l2.2-2.4 1.9 4.5M477.1 687.9l-.9-.6M522.1 711l-.2-1.6 -4.2-1M521.7 712.8l.1-.1M516.7 697.3l3.5 1.7 .8-2 -1.6-3.1 -3.1-.1 -1.2 1.1M593.8 721l-1.5-3.4 .7-1.4M588.2 713.8l-.9 1.6M592.3 717.6l-2.8 .4 -.1 0 -.9 5.2 3.5 .8M589.1 712.4l3.7 .3M588.4 717.5l1 .5M588.2 723.2l.3 0M590.7 728.1l-1 .3M590.7 728.1l1.6-3.4M590.7 728.1l1.7 2.9M581.9 731.4l.1-2.2M577.2 728.4l1.3-.8M577.3 731.8l-.5-1M585 727.8l-.7-.5M540.7 680.9l0 0 -2.8-1.7 -2.5 .5 -.4 .8 -1.9 .9 -.9 1.8M540.7 680.9l2.6-5.3 .5 0 2.1-5.2 0 0 -2.9 .2 -2.1 1.9 .1 1.5 2.3 1.6M546.5 678l-.8-1.6 3.1-2.5M535.4 679.7l-1.8-2.1 3.3-3.1 1.3 .7 -.3 4M550.7 672.3l.6-3.7 -2.1-1.2 -3.3 2.6 -1-2.6 -3.3 .3 -.3-.2 -.2-3.4 2.3-1 2 2.7 -.5 1.6M535 680.5l1 3.4M529.8 679.3l-1 2.1 1.3 3.4 .1 0M529.8 679.3l3.3 2.1M529.8 679.3l.2-2.5 1.4-.2 2.2 1M526.5 689l-.2-.4 -3.9-1.2 -1.6 2.7 .3 2 -1.7 1.8M571.5 710l.2-.4M569 707.9l2.7 1.7M567.3 712.5l-1.7-1.3 -.1-2.1M565.6 711.2l-.2 .2M493.4 691.4l1.2-.8 4.5 2.1 .1 1.3M495.5 694.3l2.2 2.3M490.5 691l.1-3.5 -.2-.3 .3-2 -1.3-1.4 -3.3 .9 -.3 .4 .3 1.6 4.3 .5M486.3 691.1l-.6-.9M536.1 713.4l-.1 .3M535.1 714.3l.1 0M531.8 712.1l1.8-2.6M516.6 700.4l3.4 .2M514.7 704l2.8 1 -.2 2.7M513.8 701.8l0-.8M540.9 740.9l4.1 1.1 .7-.2 .4-4.2 -3-.7M546.1 737.6l1.2-1.3 -.2-1.8M538.7 745.1l.3 .2 3.9 4.6 1.3-.8 .3-1.2 -.8-2.6 -4.7 0M536.9 750l.5 .6M540.7 761.6l.6-.4 4.9 .4M537.6 760.1l.2-3.8M553.9 730.5l-.1-2.4M550.1 728.1l1.2-1M547.3 736.3l.2 .1 3.7 .1M551.4 732.1l1.4 .4M545 742l-1.3 3.3M545.7 741.8l.7 .3 2.1 2.9 1.4 .7 1.2-.1 .2-2.2 -1.6-2.9 -3.3 1.6M506.9 739.1l-3.3 .7M507.1 743.2l0 .2M524.8 751.8l-1.9 1.1M526.8 755l-1.5 1.4 -2.2-.8M531.1 767.2l3.8-.9M531.1 767.2l.1 2.9 3 .1M531.1 767.2l-1.2-1.2M533.8 764.1l-2.6-.9 -.1-.6M522.5 759.6l1.8 .5M525.3 756.4l.5 1.7M529.4 759.2l-.8 .1M531.2 763.2l-1.5 1M511.7 736.9l-2.4-3.6M457.2 711.9l3.9 2.5 -1.4 2.9M458.8 717.5l.1 0M460.6 694.5l-.4 1 1.4 3.4 3.6-1.3 .4-.5M463.4 720.2l.9 0M463.2 714.7l1.8 4.1M461.1 714.3l0 .1M466.9 722.2l.7 3.5M463.1 727l2.2-.1M455.9 740.3l2.1-.3M458 736l-1.4-.9 -2.5 1.2M521.3 779.5l.6-1.8M522.7 781.6l3.9-5.7 .4 1.2 4.2 2.8M480.3 754.8l-.6 .6M460 742.6l-2.9 .1M460.8 743.3l-.7 2.1M483.4 739.3l1.2 3.4M483.7 738.4l.4-.5M480.7 735.3l3 .9M483.7 732l.2 3.6M481.9 731.1l-1 .9M520 772.4l.3-.6M522.6 769.3l3.6-1.4M499.6 772.2l-1.6-2.1M499.1 773.9l.2 1.2M493.5 773.4l-.1-1.1M514.6 763.9l-3.5 .3 -1.3-3.4 .4-.8M514.6 763.8l0-2.3M502.9 767.8l3.2 1.4M499.7 764.5l-2.2-.2 -.1 .1 -1.1 4M500.2 766.7l-2.2 3.3M493 764.5l4.4-.1M497.5 764.3l-.8-3.6 -1.2-.9M496.7 760.7l2.6-.8M493.7 760.2l.9-.4M500.5 764l1.2-3.1M504.2 765.5l2-.6 -.3-2.9 3.9-1.2M575.5 765.1l1.4 1.2M559.9 759.2l.7 .5M557.7 759l-.4-1.5 .2-2.4 -3.9-.4 -.9 1.4 .1 .3 4.5 1.1M558.9 764.1l-3.3-2.7M557 766l-3.5-2.6 1.2-1.5M554 768.7l-3.1-2.7M553.5 763.4l-2 1.2M548.4 777.5l1.6 1.5 4.3-2.1 1.8 2.2 -2.7 2.5M548.8 775.3l1.9-.6M564.1 749.3l-1.3 2 -2.3-1.7 -.5-3.9M560.6 745.4l-.3 0M534.9 775.5l-.3-1.2 .4-1.1M539.3 776.6l-.1 1.1M526.3 781.8l.7-4.7M534.6 774.3l-5.4 0M531.2 770.1l-1.8 .6 -1.4-1.2M529.4 770.7l-.3 3.5M578.8 747.3l.8-3.3 -.9-.6M581.4 740.3l1 1M579.6 744l.5 0M578.4 739.6l.8-.2M591.1 705.5l1.5-2 1.8-1M587 701.9l1.7-.5 3.9 2.1M583.7 666.5l.1-.5M561.1 664.1l-2.8-.2 -.3 .2 -.9 2.4M562 662.5l-4.2-3.7 2.2-.8 2.3 .9M558.3 663.9l-.9-4.7 -4.8 1 -.4-.5 3.5-4.6 .2 .1 1.7 3.7 -.2 .3M473 703.2l3 1.4M505.2 692.2l.1-.4 .6-.5 .4-4 4.7 .1 .3 2.8 -.4 .9 -4.7 .3 -.3-.1M509.5 695.3l-3.3-3.9M505.3 691.8l-4.4-2.1 .1-.3 3.9-3 1 .4 2-3.2 -1.4-2.4 -1.6-.2 -2 1.8 -.3 .8 2.3 2.8M503.7 677.3l1.2 3.7M503.7 677.3l-3.3 2.7 2.5 2.8M503.7 677.3l0-1.3 2.1-1.2 2.5 .7 .8 3.6 -2.6 2.1M500.4 680l-1.3-.4 0-4.2 .2-.2 3.1 .3 1.3 .5M517.5 705l2.2-1.1M521.9 709.4l1.2-3.6M589.5 718l2.5 5.9M543.9 662.1l-.5 1M543.9 662.1l1.1-1 2 1.2 1 3.1 -2.6 .4M543.9 662.1l-3.8-3.2 -2.1 1.7 -.6 2.2 3.7 1.3M541.3 667.5l-2.9 1.7 2.5 3.3M545.7 676.4l-1.9-.8M549.5 672.7l-3.6-2.3M530 676.8l-.7-.4 -.4-1.6 1.6-3.7 1.3-.4 1.1-2.7 4.2 .7 .3 .3 -1.8 3.9 -1.7 .1 -2.1-2.3M530.5 671.1l-3.1-1.9 3-2.9 1.1 .1 1.2 1.3 4.1-4.8 -3.4-.7 -1.9 4.2M538.2 675.2l2.8-1.2M538.4 669.2l-1-.2M551.3 668.6l1.2-.7 -.9-4.9 .8-.7 1.1 .7 1.4 4.8 -2.4 .1M545.9 647.9l-.3 2.4 2 1.7 1.7-.6 0-4.2 .1 0M545.9 647.9l3.4-.7M545.9 647.9l-2.2-1.2 -1.1 3.6 2.1 .7 .9-.7M564.6 655.5l-.3-1 2.4-1.2 3.2 .1M513.8 690l-2.5 .2M513.8 690l2.5 2 0 1.8M513.8 690l1.9-2.1 -.2-.3 -3.5-1.9 -1 1.7M511.8 693.6l-.9-2.5M525.1 699.9l-1.5 .3M521 697l2.9-1.2M520.2 699l.1 .9M530.1 684.8l-2.3 1.4 -1.5 2.4M528.8 681.4l-2.3-.1 .1-4.2 2.7-.7M521.1 692.1l2 .8M516.3 692l1.1-2.2 3.4 .3M527.4 669.2l-1.8 .1 .4-2.6 0-.3 -3.2-2.4 -.3 1.7 2.5 3.8 .1 .1 .5-.3M529.2 664.9l1.2 1.4M529.2 664.9l-3.2 1.8M529.2 664.9l-1.5-3.6 .3-.2 3.8-.6 1.6 1.7M524.2 662.8l-1.4 .7 -3.4-1.7 .2-3.3 1.8-1.1 .6 .3 2.2 5.1 2.1-.6 -.3 4.2M526.3 662.2l1.3-.9 -3.4-3 -2.2-.6M525.4 672l-1.7 3.6 .9 1.5 2 0M525.4 672l3.5 2.8M525.4 672l-.4-1.6 -5 3 .8 1.5 2.9 .7M519.6 658.5l-3.3-1.5 -2.6 4.2 .7 1.6 4.1-.5 .7-.3 .7 4.8 -.1 .3 -3.1 .3 1.8-5.1M516.3 657l-.2-.2 -1.4-3.5 -.5-.3 -.1-.1 -2.4 .6 -.4 .3 1.2 4.3 3.6-1.3M513.7 661.2l-3.1-1.3 -.3 0 -1.4-5.3 -.7-.2 -3 2.8 2.5 4.6 .4 .1 2.2-2M514.4 662.8l-1.2 2.8 -3.3 0 -.2 2.8 2.2 3.5 .2-.1 3.2-3.2 3.2 3.5 .1 .4 -2 1.6 -4.5-2.3M466.7 662.8l1.5 2.9 -.5 1.9 3 2 1.1-1 1.6-3.7 -.1-.1 -1.6-.7 -3.5 1.6M464.3 676.7l.3-.8 -2.7-4.4M465.2 678.6l.6 .9M470 676.1l2.2 .1 .7-3.6 -2.3-1.7 .1-1.3M470 676.1l-1.9-2.3 .2-.4 -4-5.2 -.2 0M470 676.1l-1.2 3.9M468.9 680.2l3 1 -.3 4.4M499.1 692.7l1.4-2.7 .4-.3M494.6 690.6l.9-2.3 -.5-1.3 .1-2.2 1.9-1.7 3.2 1.6 -.2 1.6 -4.4 2 -.1 0M485.7 688l.4-1.3M481.3 687.1l.1-3.1 4.4 1.1M490.6 687.5l4.4-.5M493.3 684.2l-2.6 1M493.3 684.2l1.8 .6M493.3 684.2l-1.5-3.3 -1.8 .3 -2.7-2 .2-.9 3-.9 2.1 2.8 -.8 .7M541.3 761.2l1.9-3.8 -3-1.6 2.2-3.8 1.7 2.1 .1 2.8 -1 .5M547.2 757.9l-3-1M547.2 757.9l1.7-2 -1-3 -3.8 1.2M547.2 757.9l.5 1.9M552.8 756.6l0-.2M551.8 759.3l-2.1 1.4M548.9 755.9l3.5 .1 -2.8-4.4 -1.6 1.2 -.1 .1M544.5 747.9l4-2.9M544.2 749.1l1.3 .4 2.5 3.3M542.9 749.9l-.8 1.3 -1.8 0M502.5 741.1l0 0M525.4 764l.3 .2M465.2 697.6l1.2 3.5M458.1 732.9l3.8-.9M458.1 732.9l-1.3 1.1 -.2 1.1M458.1 732.9l-.3-4.4 -3 1.7 2 3.8M462.2 731.1l-.6-1.7M457.9 727.7l-1.8-1.7 -.2-.9M454.8 730.2l-1.9-.2M458.1 728.2l-.3 .3M469.5 757.1l2.7-.4M474.2 758.5l-.9 1.5 .3 4M487.2 771.9l2.1-1.4 1.6-3.6M485.5 768.3l-2.7-3.2M489.3 770.5l3.8 1.2M475.4 766l2.6-.2M480.5 771.2l2-5.7M477.7 770.2l1.1-2.7M492.1 736.3l-3 .3M491.6 740.6l-.2 0 -3.6-.3M491.4 740.6l-3.6 2.8M486.7 738.6l.9 1.6M505.9 762l-1.9-2.4M506.2 764.9l.8 .7M511.1 764.2l-1.8 1.7M498.4 752.4l-1.8 1M501 752.7l1.5 3.7M497.9 756l1 .7M559.6 779l2.6-2.2M558.8 770.4l1.9 3.3 -1.5 .4M560.7 773.7l1.9 .4 1.1-2.7M558.6 779.3l-2.5-.2M554.1 775.8l.2 1.1M556.6 773.3l.6 .5M526.6 775.9l0-.4M591.7 699.2l-3 2.2M460.2 695.5l-2 .4 -2.2 3M459.1 701.5l-2.7-.7M461.5 699l.1-.1M518.5 672.1l2.3-3.1 4.2 .5M520.8 669l-1-1.9M525 670.4l.1-.8M509.9 665.6l-.9-.6 -.9-3.1M513.2 665.6l2.1 2.6 0 .4M515.3 668.2l1.4-.8M509.1 679.1l1.7 .7 .3 4.4 .9 .9 1.7-1.2 0-4.9 -.2-.1 -2.7 .9M508.3 675.5l2.8-1.6 .2 .2 4.6 1.7 .7-1.7M511.3 674.1l2.2 4.8M511.1 673.9l.5-1.5 .3-.5M506.3 687.3l-.4-.5M507.9 683.6l3.2 .6M502.6 683.6l-2.4 1.1M505.8 674.8l0-.5 -3.4-3.6 0 4.8M505.8 674.3l.4-3.4 -4.3-1.6 -.9-.9 .1-.2 5.2 0 .5 2.2 0 0 -.6 .5M499.1 675.4l-4.4 1.6 -.2 2.3 2.4 2.2 2.2-1.9M496.9 681.5l.1 1.6M519.7 646.6l2.8 1.3 -2.9 3.5 -1.1-4.1 1.2-.7 1.1-3.6M522.2 643l2.1 5.4 -1.8-.5M516.4 647.2l2.1 .1M516.4 647.2l-2.2 5.8M516.4 647.2l-1-1 -4 1.6 2.7 5.1M519.2 652.1l-4.5 1.2M519.2 652.1l.4-.7 0 0M519.2 652.1l2.1 3.4 2.8-4.4 .6-.3 1.7 2.9 -4.9 3.3 -.2-1.5M541.6 667.7l1.4 2.9M549.2 667.4l-.8-1.9 -.4-.1M545.9 670l0 .4M531.4 676.6l2.5-3.6M536.9 674.5l-1.3-1.6M532.9 668l-.2-.3M537.1 668.7l.1-5.8 .2-.1M558 664.1l-4.5-1.1M555.1 667.8l-.2 0M550.9 663.2l-2.3-1.1 -1.6 .2M550.9 663.2l-2.5 2.3M550.9 663.2l.7-.2M545.7 658.9l1.5-1.6 1.4 .2 0 4.6M545.7 658.9l-.7 2.2M545.7 658.9l-5-1.4 0 0 -.6 1.4M560 658l.7-4.7 .6-1 .3-.1 2.7 2.3M560.7 653.3l-4.8 1.9M557.8 658.8l-.2 .1M570.7 651.1l-.1 .3M565.9 649.9l.8 3.4M526.5 681.3l-1.1 .3 -2-2.1 -1.3 .3 -2.6 3.5 1 1.5 .7 .5 3.7-2.3 .5-1.4M517.4 689.8l-.6-1.5 -1.1-.4M522.8 663.5l0 .5M519.4 661.8l-.2 .2M510.6 659.9l1.9-1.8M502.9 662l-4.7 .4 -.2 .6 3.6 3.7 1-1.2 4.3 .8 2.1-1.3M502.9 662l.4 .5 4.4-.7M502.9 662l-.7-2.9 -2.7-.6 .9-4.6 .9-.7 2.5 4.2 -1.6 1.7M531.8 660.5l1.1-3 -4.8-.6 -.5-1.9 0-.6 4-1.3 1.8 1.7 0 1.8 -.5 .9M537.2 662.9l-.4 0M521.4 657.4l.1-.4M519.6 651.4l4.5-.3M525.1 648.8l-.4 2M525.1 648.8l-.8-.4M525.1 648.8l.6-.4 1-1.8 0-1.8M470.6 670.9l-2.3 2.5M474.9 669.7l-3.1-1.1M474.9 669.7l-.4 3 -1.6-.1M474.9 669.7l3.1-.8 .1-.2 -1.5-3.1 -3.2-.7M478 668.9l-1.1 5 -.1 .1 -2.3-1.3M481.4 684l-.6-.7 .1-.8 3.1-2.3 2 .1 .1 4.4M480.8 683.3l-2.1 .8M480.9 682.5l-1.8-3.1 .2-1.4 -2.7-2.6 -2.6 1.9 -.1 .8 3.9 1.8 1.3-.5M500.5 690l-4.9-1.7M501 689.4l-1-3.1M489.4 683.8l.6-2.6M542.1 751.2l.3 .8M549.9 740.2l1.9-.9 .2-.4M549.9 740.2l-2.4-3.8M549.9 740.2l-.2 .3M553 740.9l-1.2-1.6M553 740.9l-1.7 2.5M553 740.9l2.5 .9M557.2 738.9l-.7 1.8M549.9 745.7l-1.2 2.9 -3.2 .9M551.1 745.6l2.7 1.2 1.1-.6 .5-.4M456.1 726l-4.4 1.8M562.6 774.1l.3 1.2M567.9 774.4l-3.1 1.3M551 781.2l-1-2.2M454.5 692.9l.8 .9 .4 4.9M515.9 675.8l.3 2.7 0 .1 3.6-1.4 1-2.3M520 673.4l-1.4-.9M516.2 678.5l-2.5 .5M516.2 678.6l2 4.2 -1.2 .5 -3.3 .6M509.7 668.4l-2.9 2M511.6 672.4l-4.8-2M497.2 667.4l.7-4.3 .1-.1M497.2 667.4l3.7 1.1 .1-.1M497.2 667.4l-1.5 .2 -1 4 3.8 1.1 2.4-4.2M501.6 666.7l-.5 1.5M502.4 670.7l-.5-1.4M498.5 672.7l.8 2.5M506.9 666.3l-.6 1.9M503.3 662.5l-.7 3M484 680.2l-1.5-2.7 1.9-2.4 2.4 1.2 3.3-3.7 -2.5-2.2 -4.2 2.7 1 2M486 680.3l1.3-1.1M481.2 669l-3.1-.3M481.2 669l1.3 3.6 -.8 .5 -4.8 .8M481.2 669l.8-.8 1.3-.8 4.3 2.8 1.4-3.8 -.1-1 -1-.2 -3.7 .6 -.9 1.6M476.6 665.6l.7-.8 1.9-2.8 -2.3-.9 -1.5-3.9M593.3 734.7l-.7-.8M552.4 662.3l.2-2.1M562.1 651.4l-.5 .8M561.3 652.3l-3.8-2 .3-3.4M547.6 652l-1.7 3.1 1.3 2.2M550 657.4l1.9-3.3 2.6-.2 1.2 1.2M550 657.4l2.2 2.3M550 657.4l-1.4 .1M545.9 655.1l-1.8-.9 .6-3.2M554.5 653.9l1.5-3.1 1.5-.5M551.9 654.1l-.7-1.4 1.8-3.4 -1-1.8M512 685.7l0-.6M524.6 677.1l-1.2 2.4M519.8 677.2l2.3 2.6M522.4 687.4l-1.2-2.1M527.8 686.2l-2.9-3.2M522.5 665.7l-2.6 1.1M508.2 654.4l-1.2-1.5 -5.5-.2 -.2 .5M508.9 654.6l2.4-.8M505.2 657.2l-1.4 .2M511.7 653.5l-1.8-3.9 .5-1.9 -.9 .2 -2.9 2.5 .4 1.2 2.9-2M511.4 647.8l-.9-.2 -.9-4.6M515.4 646.2l-.7-2.9M497.5 659.1l-.9-1.6 -.3-1.9 -4.9-.4 .2 1.6 1.7 .9 3.3-.2M497.5 659.1l-.1 .4 -1.1 .4 -2.1 .2 -.9-2.4M497.5 659.1l2-.6M496.7 654.6l-.4 1M496.7 654.6l-1.5-3.7 -1.8 0 -3-4M496.7 654.6l3.7-.7M524.2 658.3l3.4-3.3M528 661.1l.1-4.2M527.7 661.3l-.1 0M526.4 653.7l1.2 .7M525.7 648.4l4.4 2 -.1-3.7 .4-.1 3.2 1.3 .1 .5 -2.1 3.3 -1.5-1.3M526.7 646.6l3.3 .1M464.6 675.9l3.4-2.1 .1 0M472.2 676.2l1.8 1.1M469.3 661.4l2.4 2.7M467.7 667.6l-3.4 .6M473.3 664.8l.8-3.5 -1.3-3.6M473.7 687.3l.5 0M475.5 681.9l-2.4-1.2 -1.2 .5M475.5 681.9l2.3-2M475.5 681.9l0 .1M473.1 680.7l.8-2.6M494.5 679.3l-1.9 .9M494.7 677l-2.1-2.2 -2.1 2.6M492.6 674.8l-.5-2 -2-.2M492.1 672.8l0-.1 2.6-1.1M538.1 756.1l2.1-.3M548.7 748.6l1.3 2.6 3.4-.5 .4-3.9M473.3 760l-2.3 1M564.3 778.7l3 .9M458.2 695.9l-2.9-2.1M490.1 660.8l.8 1.3 3.3-2M490.1 660.8l1.5-4M490.1 660.8l-2-.8 -1.1-4.3 1.8-1.7 2 .3 2.6-3.4M490.9 662.1l.1 1 2.7 1.4 2.6-4.6M498.2 662.4l-.8-2.9M497.9 663.1l-4.2 1.4 .9 2.1 1.1 1M482.5 672.6l.9 .5M482.5 677.5l-2.6 .2 1.8-4.6M486.8 676.3l.7 2M487.6 670.4l0-.2M482 668.2l-1.1-2.5 -3.6-.9M495.2 650.9l1.1-.9 .3-2.3M490.8 654.3l.6 .9M500.7 650.9l-4.4-.9M500.7 650.9l.4 .5 .4 1.3M500.7 650.9l.2-2.5 -2-2.7M501.1 651.4l4.2-2.7 0-.1 -2-1.8 -2.4 1.6M507 652.9l0-1.3M553 649.3l2.2 .9 -.5-4.7M549.3 651.4l1.9 1.3M515.5 687.6l1.5-4.3M516.8 688.3l3.7-3.5M518.2 682.8l1.3 .5M510.5 647.6l-.1 .1M538 660.6l-1.5-2.1 -3.1-1.9M536.5 658.5l2-2.7 2.2 1.7M531.6 653.1l0-1.4M533.4 654.8l3-1 1.8-4.2 2.8 1.7 .6 1.8 -3.8 1.6 -1.4-.9M535.8 643.8l2.5 5.3 -.1 .2 -4.5-.9M534.3 644.6l-.7 3.3M531 643.4l-.6 3.2M468 673.8l-5.4-3.2M476.8 674l-.2 1.4M479.9 677.7l-.6 .3M474.1 661.3l2.8-.2M492.1 672.7l-.2-4.3 2.7-1.8M491 663.1l-2.1 2.3M491.9 668.4l-2.9-2M493.7 664.5l0 0M484.2 665.8l-1.4-3.5 2.3-.7 1.2-1.2 -1.4-1.8 -3.4-.4 -.8 .5 -.1 2.4 .4 .4 1.8 .8M487.9 665.2l-2.8-3.6M554.9 746.2l3.5 4.3 2.1-.9M479.2 662l1.4-.9M480.9 665.7l.1-4.2M556 650.8l-.8-.6M505.3 648.7l1.3 1.7M505.3 648.6l1.2-1.4 .4-3.2M506.5 647.2l3 .7M503.3 646.8l-.2-2.3M538.5 655.8l-.7-1.1M540.7 657.5l2-3.3 1.4 0M542.7 654.2l-1.1-1.1M538.2 649.3l0 .3M538.3 649.1l2.6-3.2M542.6 650.3l-1.6 1M543 645.7l.7 1M488.8 654l-.8-1.3M488.1 660l-1.8 .4M487 655.7l-.7 .1 -2.6-.6 -.5-1.3M486.3 655.8l-1.4 2.8M483.7 655.2l-2.2 3M479.2 657.3l1.5 1.4M553.4 750.7l.3 .5 3.7 .5 1-1.2M549.6 751.6l.4-.4M552.4 756l.3 .1M560.2 754.6l-1.7-.3 -1.1-2.6M563.1 752.4l-.3-1.1M553.7 751.2l-.1 3.5M558.5 754.3l-1 .8"/>
<path fill="#fc8d62" d="M56.2 843.7l.9 3.1 -1.9 3.2 -1.1 .1 -1.3 .9 -.4 0 -3 2.9 0 1 1 1.3 -.2 3.5 -1.6 .6 -.9 2.9 -1.6 1.1 .1 2.3 .5 1.8 -1.5 1.6 -.1 1.5 .2 1.6 -2 2.6 -2.5 .5 -.5 .9 1.7 4.6 1.1 .8 -.5 2.1 -3.1 3 -.5 1.4 -2.1 2 1.7 4.2 -.1 .1 1 5.6 .1 4.6 1.3 3.4 -1.4 1.8 .6 2.3 2.4 1 1.6-.6 1.6 1.6 -3.4 2.8 1.2 2.4 2 0 2 4.2 -.5 1.7 2.5 1.4 .1 4.2 3.7 .2 3 2.8 1.9 2.5 -.4 1.7 1.5 2.6 -.5 3.2 2.4 1.3 2.6-1.9 2.6 2.4 .3 2.4 .7 .8 1.9-1.4 4.2 .8 .3 .8 .7 .3 3.2 3.7 -.1 .5 3.9 2.1 1.2 1.2 2.6-1.2 .5-1.2 3.1-2.1 1.2 .4 .5 4.6 1.2 .7 2.7-.9 2.1 2 2.5 4.3 1.8 .8 2.1-.6 1.5 .4 1.2-.8 2.4 0 .7 3.9 2.2 1.7 3.2-1.4 .8 .4 4.1-4.9 .6 .1 1.3 2.4 3.9-2.4 .9 3 3.3-3 1.3 .1 .8-1.7 3.5-.1 1.6 1.5 1.8-.9 0-4.1 1.7-.1 3.3 2.1 2.1-3.8 .4-.1 2.6 3.6 1 .5 1.2-.6 .4-1.9 3.8-.8 1 1.1 4 0 -.3-5.3 .8-.7 3.6 1.2 1.5-.5 .2-3.1 4.6-1 .3-1.4 2.4-.8 -.5-4.8 1-1 .9-.5 .7 .1 2.4-4.2 .5 0 1.7-1.2 0-4.2 .1-.3 1.5 .2 2.8-2.5 -1.8-3.2 -.1-.7 3.1-1.4 .1-1.6 -1.3-2.9 3.6-.3 1.2-6.5 -1.4-2 .7-.9 5.9 .1 .3-.3 -.2-.9 -1.4-1.8 .9-4.4 -.5-1.1 -.1-2.5 1.3-2 -3-1.9 .1-1.8 .3-.2 -1-4.2 -1.4-.7 .1-.5 3.5-4.7 -.7-1.7 -.7-.1 -3.7 1.4 -2.3-2.1 .1-2 -2.3-1.6 1.5-4 -2.7-1.2 -.6-3 -4.6 .9 -.4-1 1.8-2.6 -.4-3.1 -1.2-.5 -1.3-2.5 -4.1-.5 -.2-.7 .8-3.7 -.5-2.4 -1.1-1.4 -5-1.7 .7-1.8 .1-3.5 -.2-.3 -5.7-2 .2-1.7 -5.3-1.9 -.5 .1 -2.1-2.6 -1-.2 -1.1-3.5 -3 0 -.9-1.1 -.6-1.2 -2.7-.9 -5.3 1.7 -2.1-1.6 -.9-.2 -2.5 1.4 -2.7-.8 -1.8-1.6 -2-.1 -1.9-3.1 -2.2 .6 -2.7-.1 -.6 .4 -1.8-.2 -2.7 2.7 -2.9-1.8 -2.3 2.2 -2.4-1.8 -1.8 .6 -2.2-2.4 -1.1-.3 -2 1.8 .8 4.2 -1.1 1 -1.4 .6 -2.3-4.5 -2.2 .1 -1.6 2.6 0 .4 -1.2 2.2 -3.2 .1 -2.9-1.8 -1.9-.4 -.4 3.2 -2.5 .6 -2.6-1.7 -.4 0 -.7 1.1 -2.3 1.9 -.1 3 -3.2 .8 -2.8-3.1 -1.5-.3 -2.1 3.3 -.4 3.6 -1.9 1 -3.7-.9z"/>
<path fill="#d5568c" d="M104.5 826.5l-2.3-2.4 -1.1-.3 -2 1.8 .8 4.2 -1.1 1.1 2.3 2.6 .1 2.5 1.8 2.2 1.9-1.9 .2-3.2 .4-1.3 -2.2-2.3zM91.3 830l-1.2 2.2 -3.2 .1 -1.8 2.9 .3 1 5.2 1.4 .7-.6 3.5 .2 1.3-.9 .6-1.6 0-1 .7-2.3zM102.6 839.4l-1.7 .4 -2.6 3.4 1.2 1.9 0 2.7 1 .9 -.1 1.8 .9 1.8 1.3 .1 3-2.5 -2.1-2.2 .8-2 -.1-1.3 -.3-.5 -.9-4zM108.5 847.3l.2 1.8 2.7 .4 .4 .4 -1.1 5.3 -.8 .3 -.7-.1 -2.7 1.9 -.7 3.4 .5 .9 -.5 1.8 1.9 3.4 -.4 1.8 -1.8 1.2 -.2 1.1 .8 3.5 -1.4 1 -.2 4.3 1.6 1 2-.5 .1-1.7 -1.1-3.6 3.3-.6 1.2 1 1.2 .5 .9 3.7 -.4 .4 -2.8 1.4 -.3 3 -4.2 1.1 -1.1-.9 -3 .7 -.5-.4 -.8-4.1 .8-.8 -.3-1.7 -3.1-1.5 2-3.4 -4.1-.1 .4-4.4 3.2 .9 2.2-2 -.4-2.7 -2.2-.8 -3.3 4 -1.2-.3 -.1-1 .8-3.5 -1-1.1 -2.7 1.1 -.1 .5 -2.3 3 2.5 2.3 -.2 1 2.7 4 -1.6 2 1 1.9 1.6 .9 -.5 3 1.7 .9 .3 1.3 3.5 .8 -3.6 3.3 2.3 2.5 -4.8 2.8 -.6 1.1 1.1 2.1 -.2 1.9 -2.9 .9 -.6 1.3 -1.8 .8 -2.1-2.1 -2.4 1.9 -.2 .5 .6 2.3 3.8 1.6 .8-.6 2.3-.9 2.6 .2 .4-5.2 4.8 1.3 -1.4-4.7 1.9-1 -.6-4 .8-.4 1.5-2.6 4.6 1.5 .5 1.7 1 .4 3.4-2.5 .6-.7 -.6-2.1 3.1-1 1.8 .4 .1 .7 -1.3 3.4 .7 1.4 -1.8 2.8 .7 1.7 -1.5 2.9 1.5 3.6 -.3 .6 -4-.2 -.7-.1 -.8-3.5 -.9-.4 -3.4 .3 -1.2-.5 -2.8 2.7 0 1 -4.7 4.4 -.1 3.2 -1.9 1.8 1.2 4 -.3 .4 -2.9 1.4 2.5 3.3 2.7-1.1 1.6 .5 .6-.2 1.2-2.6 4 2 -1.4 2.5 1.9 1.1 1.9-.5 .9-.6 -.6-3.4 -.3-.1 -1.9-4 .2-.6 3.3-1.3 .7 .3 1.8 4.5 2.3 2.9 -.1 1.1 .5 1 -1.3 4.2 1.4 1.3 2.3 .3 1.2 1.7 -3.2 2.5 .7 3.1 -1.1 .8 0 1.1 -2.6 2.8 2.7 3 -.9 2.2 1.4 1.4 -.7 4.7 -1.2 .9 -2-1.6 -1.3 .1 -3.3-2 -.3 .1 -1.3 1.2 1 3.3 .8 1.1 .4-.1 5.4 1.3 .6-.9 4.8 .5 .7 1 4.1 1.4 2.5 4 .3 .1 .3 .8 3.9 1.5 1.4 .1 .8-1.7 3.5-.1 1.6 1.5 1.8-.9 0-4.1 1.7-.1 3.4 2.1 2-3.8 .4-.1 2.6 3.6 1 .5 1.2-.6 .4-1.9 3.8-.8 1 1.1 4 0 -.3-5.3 .8-.7 3.6 1.2 1.5-.5 .2-3.1 4.6-1 .3-1.4 2.3-.8 -.4-4.8 1-1 .9-.5 .7 .1 2.4-4.2 .5 0 1.7-1.2 0-4.2 .1-.3 1.5 .2 2.7-2.5 -1.7-3.2 -.1-.7 3.1-1.4 .1-1.6 -1.3-2.9 3.6-.3 .5-3.3 .7-3.2 -1.4-2 .7-.9 5.9 .1 .3-.3 -.2-.9 -1.4-1.8 .9-4.4 -.5-1.1 -.1-2.5 1.3-2 -3-1.9 .1-1.8 .3-.2 -1-4.2 -1.4-.7 .1-.5 3.5-4.7 -.7-1.7 -.7-.1 -3.7 1.4 -2.3-2.1 .1-2 -2.3-1.6 1.5-4 -2.7-1.2 -.6-3 -1 .1 -3.6 .8 -.4-1 1.8-2.6 -.4-3.1 -1.2-.5 -1.3-2.5 -3.1-.2 -1-.3 -.2-.7 .8-3.7 -.5-2.4 -1.1-1.4 -4.4-1.4 -.6-.3 .7-1.8 .1-3.5 -.2-.3 -5.7-2 .2-1.7 -5.3-1.9 -.5 .1 -2.1-2.6 -1-.2 -1.1-3.5 -3 0 -.9-1.1 -.6-1.2 -2.7-.9 -5.3 1.7 -2.1-1.6 -.9-.1 -2.6 1.3 -.1 1.5 -.7 2 -4.5-1.2 2.7-3.1 -1.8-1.6 -2-.1 -1.8-3 -2.3 .5 -2.7-.1 -.6 .4 -1.8-.2 -2.7 2.8 0 .5 3.1 3.7 -2.5 2.1 -.3 .8 .4 .9 -1.1 4.2 -.9 .7 1.9 3.1 -1.5 2 -3-1 -.7 .7zM143.7 944.7l.7-.6 .8-1.4 3.5 .3 .3 .5 -.1 1.8 -.6 2.5 .2 1.8 -.7 .3 -4.8-2.5zM142.2 889.4l.2-.1 4.4 4.5 -2.9 1.1zM135.4 837.6l0-2.6 .4-.7 1.9-.9 .4-1.7 4.4 1.2 .3 .8 -2.5 3.1 0 .9zM121.5 942.6l-2.5-1.2 .3-2.8 1.1-.3 3.5 2 1.4-.8 .1-1.6 3.3-1.7 -1.6-4.2 1.2-1.1 -.3-1.9 2.7-3.6 2.4 2.2 .8-.1 3.6 4 -.3 .7 -.1 2.3 -.2 .4 -2.2 1.6 -2 3.1 0 .2 -3.3 3.3 .7 2.6 -5.2-.3 -.5 .4 -1.8-.6zM118.6 895.7l.3-2.3 -1.6-2.1 1.2-.6 1.7-2.2 .5-.3 2.9 .8 -.2 2.5 -1.6 .7 -.9 1.3 .8 3.2 -1.5 .3zM121 869.9l6.4-1.2 0 0 -2.1 4.4 -4.3-3.1zM120.2 844.2l-2-1.4 .1-2.7 1-1.6 1.4 0 2.3-3 1.3-.3 1.5-1.3 2.4 1.8 -1.2 3.7 -.7 .9 .1 1.5 -1.6 .8 -1.2 3 -3-.2zM114.9 911.7l.1 1.2 5 .1 .2 .4 -3.3 2.2 -1.8-1.3 -1.8 .7 -1.7-3.1 1.1-.8zM103.2 906.1l4.2-1.5 1.7 3.2 -.7 1 -3.3-.1zM116.4 860.2l.6 0 1.8 1 .2 .6 -.5 2.9 -3.2 1.1 -.7-3.2zM130.5 908.5l.5-.8 1.3-5.3 1.6-.2 2.2 1.6 .4 .9 1.8 1.8 .5 1.6 .1 .7 -.6 1.1 -1 .7 -.1 3.7 -2.2 .4 -2-1.5 -2.3 1.3 -2.2-2.5 1.5-3.4zM130.5 843l2.4-3.6 .3-.2 .4 .1 1.7 2.4 .3 2.5 -3.3 .9 -1.4 3.3 -.6 1.1 -2.9-4.8 -.1-1.9zM125.1 886.2l-.2-3.7 2.9-2 1 .4 .4 2.6 -1.5 3.7 -2 .1zM135.8 891.4l2.6 2.8 -1.3 1.8 -3.5-2.5zM148.7 923.2l-.9 1.9 -3.6-2.5 .2-.4 1.8-1.2 -1.6-3.9 1.3-.4 2.8 1.4 .4 1.1 3.7 1.1 -.2 2.7zM157.9 897.1l-4.2 4.5 -.1-.1 2.7-5.5zM146.9 835.7l1.8 .4 .4 3.9 -1.7 .9 -2.7-2.5zM150.4 882.6l-3.5 2 -2-3.1 .5-1.8 .7-.1zM63.2 852l-2.3-1.2 -2.7 1.8 4 1.8 1-.1zM97.3 857.5l-2.9-3 -2.8 1.3 -.1 2 .1 .2 2.9 2 .7-.3zM83.1 862.1l-1.2-4.6 -2.9-.3 -1 .1 -1.4 2.2 -4.2-.9 -.9 .6 -.1 3.3 -1.9 1.5 -.2 1.1 3 3.4 2.4-3.7 -.7-1.1 2.6-4.1 2.4 3.2 .4 .1zM84 872.1l-2 1.1 -.2 2.5 3.1 2.5 .3 3.3 1.2 .4 3.3-4.3 .2-1.2 -.8-.7 -1.1-.4 -2.3-2.6zM82.5 892.8l2.8-.4 .5-1.2 -2.3-3.5 -2.9 3.6zM64.3 905.1l.8 1.7 .6 2.3 1.3 0 3.8-1.5 .2-1.9 -.9-1.2 -1.3-2.2 -2.6-.2zM73 917.6l-.5 2.4 3.5 2 1.3 2.3 1.8-.6 .5-1.9 -.4-3 -2.6 1zM106.7 932.6l3.2-1.2 -.1-5.1 -.5-.3 -3 .8 -1.2 .5 -.7 1.4 .4 2.6zM71.5 931l1.7 1.1 3-.2 .6-2.8 -.7-1.7 -4.5 2.2zM61.8 934.7l2.2 .7 2.5-4.3 -2.7-.6 -2.4 3.2zM70.1 944l.1 .6 3.5 2.9 2-2.4 .5-1.7 -3.7-1.1 -1.9 .7z"/>
<path fill="none" stroke="#fff" stroke-opacity=".7" stroke-width=".5" d="M62.5 862.9l1.9-.1 .6 3 3.1 .3 -.9 3.8 5.1-1.1 0-.4 -2.9-3.3 -1.3 1M62.5 862.9l-2.9-2.3 .7-1.7 2.7-1.4 2.3 4.5 -.9 .8M62.5 862.9l-2 3.6 -3.3-.3 -.3 .2 1.8 4.4 2.5-1.2 -.2-2.7 -.5-.4M65 865.8l-.7 1.4 .9 2.1 1.9 .7 0 0 .1-.1M69.5 864.1l-.1 1M69.5 864.1l-3.4-2.3 -.8 .2M69.5 864.1l1.9-1.6 .1-3.3 -3.2-1 -2.2 3.6M114.5 885.2l-1.2-5.3 -2.8 1.4 -2.4-1.1 -2 .4 -1.3 4 1.2 .8 4.3-1.1 .2-3M114.5 885.2l1.8 .5 .1 .7 3.7 2 .6-.2 -.5-3.6 -3.5 .7 -.4 .4M114.5 885.2l-3.2 1.1 -.1-.2 -4.4 2.4 -.2 1 .5 1.7 .9 .4 3.4-2.6 .5-.6 -.6-2.1M139.1 879.8l-.7 1.1 .8 4 1.9-.8 .6-5.4 -2.6 1.1 -2.6-3.8 3.4-1.8 1.3 .6 1.1 3.4 -.6 .5M164.3 876.4l-1-.5 -.6-3.2 1.4-2.5 1.2-.2 2.4 3.4 -3.4 3 1.6 1.6 2.8-.7 1.8 1.6 .6 2.3 2.5 .5 0 5.4 .2 .5 -.1 .2 -4 .6 -1.3-3.2 1-1.6 .1-1.1 -3.1-1.1 -1.9 3.2 .2 1.3 3.7-.7M59.6 860.6l-1.2 .5 -3.3-1.2 0-2.4 -.8-1.2 -3.8-.1M58.4 861.1l-1.2 5.1M72.3 868.8l.5 .8 -1.9 3.5 -3.8-3.1M72.3 868.4l2.3-3.6 -.7-1.1 -2.5-1.2M79.8 881.9l1.9 1.3 -.9 2.6 .2 .5 2.5 1.4 .8-5.5 -2.6 1M79.8 881.9l-2.8 .6 -.4 1.7 -1.2 1.2 -1.7-.3 -2.4-1.7 3.7-3.4 1 .2 1 2.3M79.8 881.9l1-2.7 4.3 2.3 -.8 .7M80.8 879.2l-.5-1.3 1.6-2.3 .1-2.4 -1.8-.7 -3.8 1.7 -.2 1 1.3 2.9 2.8-.2M72.8 869.6l1.3 .4 1.3 3.2 1 1M74.1 870l4.1-1.4 2 3.9M39.8 905.6l3.8-1.4 1.5 2.6 .4 1.8 -1.9 .8 -2.6-.4M164.2 920.7l2.7 .3 .5-4.6 -2.3-1.4 1.2-2.1 -.5-2.5 -1.9-2 -1 .7 -.9 4.5 1.5 1.4 1.6 0M164.2 920.7l-1.9-1.9 1.2-3.8M164.2 920.7l-2 2.8 .7 1.5 4.3-2.3 -.2-1.6 -.1-.1M162.3 918.8l-1.1 .2 -2.5-2 0-.8 -3.1-1.5 -.5 4.3 .9 .3 2.7-2.3M127.5 902.5l-.5-.3 -.4-2.7 3.2-2.2 .1 .1 .8 4.2 -3.2 .9 -.2 3.1 -2.2 .6 -2.2-4 4.1 0M120.2 897l-1.7-1.2 -2.8 .3 2.6 4.2 1.9-3.3 1.5-.3 -.8-3.2 1-1.2 1.6-.8 2.1 3 0 .6 -1.4 1.6 -.8 .4 -1.7-.4M118.3 900.3l-.1 .7 3 1.8 1.6-.7 .6-5M145.9 887.4l1 .7 .2 0 3.1 3.2 -2 3.1 0 .1 4.7-1 -.5-3.8 -2.2 1.6M145.9 887.4l-3.5 1.9 4.4 4.4 .1 .2 -3.1 1.1 -1.7-5.7 .3 0M145.9 887.4l0-.1 .9-2.6 -2-3.2 -2.1 2.4 3.2 3.4M146.8 884.7l3.7-2.1 -4.4-3 -.8 .1 -.5 1.8M138.4 880.9l-3.2-.5 -1.4 .8 .5 2.6 4.7 1.4 0 1.9 -2.4 1.3 -3.7-1.5 .4-2 -4.1-1.3 -1.4 3.6 1.2 .9 3.7-1 .2-.2M134.3 883.8l-1 1.1M139 885.2l.2-.3M141.1 884.1l1.6-.2M132.7 887.1l.7 3.5 -2.5 1.7 -.8-.4 -1.1-3.8M129.2 883.6l-.3-2.8 2.5-.9 2.4 1.3M125.6 887.4l-.1 .1 1.9 5.6 2.7-1.2M125.6 887.4l2.2-.2M125.6 887.4l-.5-1.2 -4.5-2.2 .2-1.8 -4.2-1.8 .1 4.9M116.6 880.4l0 0 -2-.8 -.8-.1 -.5 .4M108.1 880.2l0-1.6 3.6-3.4 -1.3-1 -3.3 .6 1 3.8M164.8 906.6l3.6 .5 .4 3.9 .8 1.1 -3.3 .8M164.8 906.6l-.9 1.8M164.8 906.6l-.1-.2 -4.2-2.3 -1.3 0 -.9 1.6 -3.6-1.5 .9 4.3 -2.7 1 -1.4-.8 -.3-.7 2.9-4.5 .6 .7M188.2 905.6l-1.7-.3 -3.3 5.1 -.1-.1 -1.4-3.1 2.7-2.8 2.1 .9M188.2 905.6l-.3 3.5M188.2 905.6l.4-.3 .1-.5 -3.8-4.7 .1-.2 2.5-.4 2.6 2 -1.4 3.3M56.7 866.4l-2.7 3.6 -1.1 .1 -.5 0 -1.4 .2 -.8 3.2 1 1.4 1.9 .6 -.2-5.4M56.7 866.4l-4-2.4 -.8 .6 0 0 -4.1 3.9 3.2 1.8M56.7 866.4l.2 0M52.7 864l.2-2.6 -2.6-1.7M54 870l2.8 3.4 -.5 1.6 3 1.9 1.1 2.9 -4.3 2.1 -2-3.5 .3-2 1.9-1.4M45.4 873.1l1.6 .8 .7 1.9 -2.4 2.5 -1.9-2.6M68.8 902.3l1.2 2.2 -4.9 2.3 .7 2.3 1.2-.1 3.8-1.4 .1-1.9 -.9-1.2M68.8 902.3l-2.6-.2 -1.8 2.9 -3-.2 -1.5-.8 5.4-3.3 .9 1.4M68.8 902.3l2.3-2.6 .1-.1 4.3 2.9 .2 .3 -.5 .8 -4.3 2.1M75.7 902.8l2.2 .1 1.4-1 .5-3.4 -2.8-2.1 -.7 .4 -.8 5.7M76.1 943.4l1.3-.7 .2-.6 -.3-3.9 1-1 1.6-.3 1.1-3.3 3.2-1.7 1.4 .3 .5 1.2 -2.1 2.8 .7 2.1 -2.1 1.9 -1.4-2.9 2.8-1.1M76.1 943.4l-3.6-1.1 .4-4.3 -2-.5 -2.6 2.3 2.3 3.3 1.9-.8M76.1 943.4l-.4 1.7 2.1 3.3 -3.2 1.7M77.4 942.7l3.7 3 0 0 4.5 1 1.2-3.8 0-.5 -.1 0 -2.6-.2 -3 3.5M155.6 923.9l2.2-2.6 1 .2 2.4-2.5M155.6 923.9l-2.6-.2 -.3-.7 .2-2.7 .9-.9 -2.3-4.5 -.6 .1 -2.1 3.1 .3 1 3.8 1.2M155.6 923.9l1.7 2.2 -.6 1.1 .6 3.6 .3 .2 2-.4 -.4-4.2 -.6-.5 -1.3 .2M129.8 897.3l-4.2-2.2M158 912.3l2.6 1.5 1.4-.2M158 912.3l-.1-3.9 .1 0 4.9 .7M158 912.3l-2.9 1.5 .5 .9M160.6 913.8l-1.9 2.4M155.1 913.8l-1.5-.6 -2.1 1.7M133.4 890.6l2.2 .1 1-2.3M130.9 892.3l.5 .9 -.2 3.1 4.4 1.4 1.2-.8 .3-.9 -3.6-2.4 -2.1-.4M130.7 901.6l1.6 .8 1.6-.2 1.7-4.5M129.9 897.4l1.3-1.1M146.9 888.1l-.1 5.6M147.1 888.1l4.8-1.1 1 1.5 -.5 1.2M148.9 905.6l-1.6 .9 -3.4-1.1 -.2-.3 -4.8 2.9 -.6-1.5 3.9-3.8 1.4 .7 .1 1.7M148.9 905.6l-.3-3.3 -.8-.6 -4.2 1.7M148.9 905.6l2.3 2.4M118.9 893.5l-1.6-2.2 1.1-.7 1.7-2.2M118.9 893.5l2 0M118.9 893.5l-.4 2.3M115.7 896.1l-1-.4 -1.4 2.9 1.5 3.6 3.4-1.2M135 919l2.6-2.8 -.2-1.6 4.9 0 .6 2.3 1.7 .2 1.3-.4 2.9 1.4M135 919l-1-2.4 1-1.8 2.2-.5 .2 .3M135 919l0 .4 -2.7 .5 -2.5-2.5 .9-1.9 3.3 1.1M153.5 901.5l0 0 -1-4 -3.5-.9 -1.4 3.8 .2 1.3M153.5 901.5l-4.9 .8M153.5 901.5l.2 .2 4.2-4.6 -1.7-1.2 -2.7 5.6M149 896.6l-.8-2.1M164.3 887l2.7 1.5 2.2 .4 .5-.5M164.3 887l.4-1.1M164.3 887l-1.9 1.6 -3.2-3.3 .7-2.6 1.1-.6 3.5 2.5M151.9 887l.3-3.1 -1.3-1.2 -.4-.1M155.1 889l-2.2-.5M155.1 889l2.7-3.3 -3.8-2.4 -1.8 .6M155.1 889l2.2 2.1 -2.1 3.9 -2.3-1.5M145.3 879.7l-.5-.5 -2.5-1M118.4 890.6l3.5 1.7M117.3 891.3l-1.4-.1 -1.8 2.8 .6 1.7M123.6 889l1.9-1.5M123.6 889l-2.9-.8M123.6 889l-.1 2.5M127.4 893.1l-1.8 1.4M120.6 884l-.4 .6M120.8 882.2l1-.7 3 .9 .3 3.8M106.1 880.6l-1.5-.9 -3.2 .1 -.9 .9 .9 4.1 .5 .4 2.9-.6M111.7 875.2l1.1 .6 1 3.7M52.9 851l1.8 3.9 -.4 1.4M55.8 850.4l4.5-1.4 .6 1.8 -2.6 1.8 3.9 1.8 -3.5 1 -.9-2.1 0-.5 .5-.2M55.8 850.4l2 2.4M55.8 850.4l-.5-.3M60.3 858.9l-1.7-2.7 -3.5 1.3M63 857.5l.7-1.2 -.5-2 .1-.2 5.7-.7 .1 .1 -1.4 3.7 -4-.9M164 864.3l3.5 1.9 1.7-4.4 -.1-.5 -2.2-.4 -3.5 .8 .6 2.6 -1.3 2.5 .8 2.7 -5.3-.8 -.4-.7 2.7-1.8 2.2 .6M189.1 887.5l-.1 .1 -5.6-1.6 2.7-2.2 -2.1-1.5 -.9 3.8 .3-.1M180.8 884.8l2.3 1.3 0 0M180.8 884.8l.5-3.4 2.3-.1 .4 1M180.8 884.8l-2.7 .7 -1.5 2.2 -2.8-.1M183.8 901.5l-3.5 .3 .3 4.8 1.1 .6M183.8 901.5l.6 2.9M183.8 901.5l1.1-1.4M165.4 927.9l3.8 1.3 1.9-2.4 0-1.3 -3.5-1.2 -2.2 3.6 -1.2 .5 -1.1 2.5 .3 1 3.8 1.6 2.4-1.1 2.7 2.3 -.5 1.4 -4.5-.6 -.1-2M169.6 932.4l.2-1.7 -.6-1.5M51.9 864.6l-4.2-1.3M51.9 864.6l.5 5.5M47.8 868.5l-1.1-.1M57.9 886.9l-.1 .2 -1.7 4.2 -2.2 0 -1.6-1.4 0-1 5.5-1.8M57.9 886.9l.2-1.2 -2.2-2.6 -4 4.5 .4 1.3M57.9 886.9l2.6 2.9 2.9 .2 .3-.1 2.1 1.8 4.3-.3 -.3-3 -1.4-2.2 -2 0 -2.4 2.4 0 .1 -.3 1.2M60.5 889.8l-2.5 2.8 1.6 2.4 -1.3 1.7 -1.3 .5 -1.6-.5 -1.1-.7 3.4-3.5 .3 .1M58.1 885.7l1.5-.3 4.4 3.3M58.7 905.3l1.2-1.3 0 0M58.7 905.3l-.7 3.3 .2 .4 .6 .4 2.4-1 .2-3.6M58.7 905.3l-3.8 .1 1.4-4 -2.4-.4 -.9 0 -1.9 3.7 3.1 1.2 .7-.5M75.2 903.6l.3 1.9 -1.6 4.6 1.3 0 3.4-1.2 -3.1-3.4M60.4 879.8l1.9 3.6 2.5-.3 1.6 3.1M60.4 879.8l1.7-.7 3.8 1.1 -.1 1.3 4.2 2.3 .8-.6 -.6-3.1 -3.8-.4 -.5 .5M60.4 879.8l0 0M64.8 883.1l1-1.6M62.3 883.4l-.2 .3 -2.5 1.7M63.4 890l-2.7 5.1 3.7 2.2 .4-.3 .1-.2 .9-5.1M71.7 887.4l2-2.3M71.7 887.4l-1.9 1M71.7 887.4l3.7 2.7 .7-.9 -.7-3.8M48.9 892l-.6 2.8 .1 .3 4.6 .8 .3-.2 .6-4.4M48.9 892l3.4-2.1M48.9 892l-1.1-1.2 -4 0 -.2 1.2 -1.7 2 -2.9-5M51.9 887.6l-2.9-2 2.5-2.7 4.4-.1 0 .3M55.9 882.8l.2-.9M47 873.9l3.2-.4M45.3 878.3l.7 1.6 2.1 0 .9-.5 0-2 -1.3-1.6M46 879.9l-2.5 2.4 5.4 3.3 0 0 -1.8 1.8 -1.6 .1 -2.9-2.8M49 877.4l2.2-2.5M56.8 873.4l1.3-.8 2.7 .6 1 1.5 -2.5 2.2M85.1 881.5l.2 0 1.1 .3 .8 .8 .1 3.5 -3.7 1.7 -.1 0 0-.1M83.5 887.8l-2.8 3.5 1.8 1.5 -.5 2.5 -3.6-.8 2.2-3.2 .1 0M70.9 873.1l0 .2 -1.4 2 2.2 2.6 .4 0 1.4-1.5 -.7-2.4 -1.9-.7M67.1 870l-.9 5 .4 .3 -.2 4.4M62.1 879.1l1.7-3.8 -2-.6M66.6 875.3l2.9 0M66.2 875l-1.2-.1 -1.2 .4M64.3 867.2l-3.3-.3M65.2 869.3l-2.2 1.4 2 4.2M75.4 873.2l-2.6 .8M43.6 904.2l.9-1.4 2.6 .2 .8-.2 .5-3.6 -1-1.8 -2.2 1.8 -1.3 2.4 .6 1.2M49 909.3l-.2 0 -1.1-.4 -.9-4.5 -1.7 2.4M49 909.3l2-4.5 -3.1-2M49 909.3l1.2 1.1 -1.2 5 2.8 .9 2.5-3.4 -.2-.6 4.1-3.3M87.1 928.7l-2.3-3.6 -3.5 3.5 -.1 .3 .2 .3 2.8 2.7M87.1 928.7l0 .8 -1.5 2.7M87.1 928.7l4.6-4.4 .4 .1 .1 .3 -2.7 5 2.1 .4 .3 2.2 -2.5 2.9 2.1 1.8 1.1 .2 2.1-4.4 -2.8-.5M154.9 955.5l1.4-1.9 -1.5-2 -2.1-2.1 -1.8 .6 .4 4 3.6 1.4 -.3 2M156.3 953.6l2.9-.2M164.7 948.7l3.2-3.2 2.4 2.3M164.7 948.7l.7 1.5M164.7 948.7l-1.2-.3 -.3-.8 3.6-4.4 -.2-.2 -4.6 2.3 1.2 2.3M148.9 913.6l2 1.4M148.9 913.6l-1.8 .3 -1.2 2.8M148.9 913.6l.4-3.4 -4.1-.3 -.5 .3 0 1.2 -2.4 2.9 -4-4.4 .7-1.1 4.9 .7 .8 .7M153.6 913.2l-.7-3.7M149.3 910.2l2.2-1.5M153.8 919.4l1.3-.4M149.1 919.1l-1.2 1.9 -1.7 0 -1.6-3.9M147.1 913.9l-2.4-2.5M153 923.7l-.9 3.8 4.6-.3M152.7 923l-4 .2 -.8-2.2M157.2 933.4l.4-2.4M157.2 933.4l2.3 2.6 3.3-2.4 .6-1.7M157.2 933.4l-3.8 2 -.2 .3 -.7 .3 -4-1.9 -.6-1.6 4.7-2.2 .1 0 .7 5.1M158.8 921.5l1.1 1.7 2.3 .3M157.8 921.3l-1.8-2M150.9 950.1l-2.4-.5 -.1-1.8 -4.1-3.7 -.7 .6 -.6 2.7 4.8 2.6 .7-.4M151.3 954.1l-1.8 2.3 -1.5-.3 -.2-6.1 0 0M147.8 950l-1.1 .8 -2.5 4.8 -2.2-1.3 1.2-2.7 3.5-.8M135.4 950.9l-2.1-2.5 -3.1 3.4 -.2 1.6 3.3 .7 -.8 4.3 -1.8 .7 -1.3-5.2 .6-.5M135.4 950.9l-.5 2.9 1.4 1 .3 3.1 -1.3 .9 -2.8-.4M135.4 950.9l3.9-1.7 0 0 .7 4.4 -3.7 1.2M170.2 912.4l-.6-.3M170.2 912.4l-1 3.4 -1.8 .6M170.2 912.4l.5-.2 -.7-5.5 1.3-.7 2.9 4.1 -.3 .7 -1.6 1.2 -1.6 .2M168.8 911l-3-.6M168.4 907.1l1.6-.4M148.7 943l.3 .5 0 1.8 5.5 1.4 .4-.4 -1-1.8 -4.9-1M148.7 943l-3.5-.4 -.9 1.5M148.7 943l1.3-2.5 4 2.9 -.1 1.1M126.6 899.5l-2.4-2.8M148.2 894.4l-1.3-.5M138.4 894.2l.5-.2 1.9-4.8 -1.8-2.1M138.4 894.2l-2.5-2.9 -.3-.6M138.4 894.2l-1.3 1.8M135.9 891.3l-2.4 2.3M138.9 894l3.9 1.3 .7-.1 .3-.2M140.8 889.2l1.3 .1M147.6 900.4l-3-1.6 -1.1-3.6M143.9 905.4l0 4.1M147.3 906.5l-2.1 3.4M97.4 932l-2.7 .8M97.4 932l0 .1 .2 .9 -1.3 3.7 -3.6 .6 -.1-.1M97.4 932l0-.1 3.1-4.5 -1.1-1.7 2.3-2.1 3.1 3 .3 .8 -.6 1.3 -4-1.3M87.6 937.5l1-2.4 -2.5-1.7M87.6 937.5l-2.5 1 -.4-.2M87.6 937.5l-.3 4.6 2.2-.1 2-5M92.7 937.3l1.9 4.7 3.3-3.1 1.7 .3 -2.7 5 -.6 .2 -1.8-1.9 .1-.5M106 885.4l.8 3.1M110.3 884.3l.9 1.8M83.6 887.8l2.2 3.4 3.1-1.2 1.3 1.7 3.8-2.6 .5-1.7 -1.9-.9 -3.2 1.4 -.5 2.1M87.3 886.1l2.1 1.8M137.6 916.2l3.2 2.4 -1 1.5 1.3 4.3 .9 .1 2.1-1.9 .2-.4 -2.3-4.2 -1.2 .6M142.9 916.9l-.9 1.1M142.3 914.6l0-.3M138.9 908l.1 .8M138.3 906.5l-1.8-1.9 -.4-.9 4.2-3.1 1 .6 1.9-1.6 -1.3-2.4 -1.9 2.8 .3 .6M142.2 902.7l-.9-1.5M137.2 914.3l.1-3.7 1-.7M137.3 910.6l-2.2-.1 -.6-3.8 -3.6 1 -.4 .7 3.7 2.2 .9-.1M152.5 897.5l2.7-2.5 1 .9M158.3 905.7l-.3 2.7M157.9 908.4l-2.3 .1M173.7 887.8l-.7 3.6 0 .2 -4.4 1.8 -.1 .2 2.7 1.6 2.2 .1 .9-1.9 -1.3-1.8M162.4 888.6l-.3 1.3 -.5 .7 1.4 3.4 5.2 0 .2-.4 -2.4-2.1 -3.9-1.6M144.8 879.2l.8-4 -1.1-2.5 -3.3 2.1M116.4 886.4l-1.2 3.4 .7 1.4M163.3 875.9l-2.6 1.6 .5 4.1 4.5-1.7 .2-1.9M159.7 861.9l3-.6 .7 .4M159.7 861.9l.8 4.3M159.7 861.9l-2.4-.4 -1.1 5 1.2 1.3 -3.4 3.8 -.8-2.6 -3.1-1.5 -.4-2.1 1.2-.5 4.9 1.6 -2.6 2.5M147.7 864.2l2 1.2M147.7 864.2l-1.8 .7 -.9 3.6 -.7 1.6 .7 1.7 3.3 .1 1-1.3 .3-1.6 -4.6-.5M147.7 864.2l0-1.9 2.5-3 .1 0 2.1 3.9 2.9-2.1 -3.3-2.3 -1.7 .5M171.1 852.1l-3.9 1.8 -.2 .2 -3.1 .6 .5 1.7 1.7 1 2.2-.7 -1.3-2.6M139.9 874.2l-1.1-3.4 -2.7-.2 -2.6 1.4 2 3.6 .7 .4 .3 0M133.5 872l-.2-.1 -.4 .2 -2 4.1 1 1.4 3.6-2M150.1 867.5l-.5 1.5M96.7 884.1l-2 3.3 1.9 .9 3.7-3.3 -3.6-.9 -.2-1.2 2.2-2.3 1.8 .1M94.7 887.4l-.2 0M78.2 868.6l.1-.5 -3.5-3.2 4.3-2.2 .3 .2 -.4 4.5 -.7 .7M109.2 855.4l-2.7 1.9 -2.4-1.2 .2-2.5 3.2-1.1 1.7 2.9 .7 .2 .8-.4 1.2-5.3 -.5-.4 -2.7-.5 -1.3 1.4 .1 2.1M110.4 874.2l.1-1.3 3.6-2.9 1.1 3.4 -2.4 2.4M107.1 874.8l-1-.4 -.8-3.5 .3-1.1 1.8-1.2 1.3 .8 1.8 3.5M106.5 857.3l-.6 3.4 .4 .9 4.6-.3 .2-1.1 3.5-1.6 -.5-3.4 -3.4 0M104.6 879.7l.2-4.2 1.3-1.1M60.3 849l0-1 .9-1 3.9 .9 .7-1.6 -.5-2.4 -2.2-1.4M68.3 858.2l-.6-1M71.5 859.2l.9-.5 .7-4.2 -1.5-1.7 .8-2.4 -1.8-2.1 -4.4 1.7 -.6-.2 -2.4 2.2 -2.3-1.2M58.6 856.2l.1-.8M54.7 854.9l3.1-1.6M173.6 881.7l1.1-.5 .9-3.9 -1.3-1.1 -3.8 2.7M178.1 885.5l-1.3-3.3 -2.1-1M176.6 887.7l2 2.7 -.3 1.2 -5.3-.2M173.6 887.1l-4.2-3.5M168.7 877.3l1-2.3 -.9-1.3 -1.1-.3M171.1 881.2l-1.6 1.3M165.7 879.9l.7 1.5M165.3 870l2.8-1.8 .5 .2 1.7 2.3 -1.5 3M174.3 876.2l-.2-.5 -2.3-1 -2.1 .3M169.1 861.3l1.9-2.5M167.5 866.2l.6 2M168.6 868.4l3.7-1.9 .5 4.5 -1.1 .2 -1.4-.5M169.2 861.8l4.1 3.7 .6-1 2.5-2.7M166.9 860.9l-.8-3.5M162.7 861.3l0-.2 -2.4-5.3 -3.1 1.8 -.3 3.5 .4 .4M162.7 861.1l1.7-4.7M186.1 883.8l1-.2 2 3.4M187.1 883.6l.5-1.6M164.7 906.4l.6-2.7 -3.4-1.9 -1.4 2.3M165.3 903.7l1.2-2.2 -2.4-3.1 3.7-3.2 1.8 4 -.1 1.2 -.5 .7 -2.5 .4M183.2 910.4l.2 .2 3.8-.5M183.1 886.1l-.2 1.9 -3.7 2.4 -.6 0M189 887.6l-2.8 4.2 5 .8M180.3 901.8l-.8-.4 -3.1 .5 -.9 1.5 2.1 3.5 3-.3M173.1 941.3l-5.2-2.3 3.8-2.2 2.4 4M158.3 942.5l-1.2-2.8 -2.4 1.4 -.7 2.3M158.3 942.5l-3.1 3.7 -.3 .1M158.3 942.5l2.1 .8 1.6-2.4 -2.1-2.6 -.6-.4 -2 1.2 -.2 .6M157.3 939.1l-4.1-3.4M163.5 948.4l-3.3 1.9 -1.3-1.8 -.4-1 -3.3-1.3M160.2 950.3l-.1 2.4M159.5 936l-.2 1.9M159.9 938.3l3.3-.7 .7-1.3 3 .8 .6 2 -1.3 2.3 -1.1-.4 -1.9-3.4M164.2 928.4l-.9-1.2 -.4-2.2M163.1 930.9l-3.5-.3M167.9 939l-.4 .1M172.3 934.7l2.1-.7 -.1-4 -4.5 .7M171.7 936.8l.1-.7M173.7 916.8l-1.4-4.8M173.7 916.8l-1.8 .7 -.8 3.2 -4.1 .4M173.7 916.8l2.3 .2 .5-.5 3.9 .5 1.5-.3 .2-2.7 -4-.6 -1.3 .8 -.3 2.3M176 917l.3 2.6 2.9 .9 1.2-3.5M171.9 917.5l-2.7-1.7M55.1 859.9l-2.2 1.5M53.1 875.5l1.3 .9M56.1 891.3l1.6 1.2M62.1 883.7l1.9 4.9M69.8 915.6l-1.9 1.9 -4.3-1.6 .7-2.4 -.3-1.2 -4.1 0 -2.1 2.6 5.7 1.2 .1-.2M69.8 915.6l-5.5-2.1M69.8 915.6l1.1-.4 2 2.2 .9-.3 3.1-2.3 -4-3.5 -1.8 3 0 .1 -.2 .8M59.9 904l-.5-1.6 1.2-1.9 3.6-1.9 1.1 2.1M70.8 907.6l2.5 2.7 .6-.2M67 909l4.1 5.3M65.1 906.8l-.7-1.8M65.8 909.1l-1 1.1 -3.6-1.8M79.8 898.5l2.4-.8 2.4 3.8 2.4-1.9 .5-1 -2.1-2.5 -2.7 .8 -.5 .8M70.7 891.9l-3.4 4.4 -2.4 .5M70.7 891.9l-.6-.5M70.7 891.9l.3 .1 .3 5.1 .4 .6 3.6-1 -3.2-4.8 -1.1 .1M68.4 886.2l1.6-2.4M70.8 883.2l.5 .2M70.2 880.1l1.5-2.2M76.6 884.2l4.2 1.6M76 880.2l1.5-2.1M75 880l-2.9-2.1M47.8 890.8l-.7-3.4M49 885.6l-.1 0M51.5 882.9l-1.4-3.3 4-1.2M50.1 879.6l-1.1-.2M48.1 879.9l.8 5.7M63 870.7l-.5 0 -1.7 2.5M87.2 882.6l4.3-.1 .1-.6 -2-4.4 -3.2 4.3M81 886.3l-3 3.1 -1.9-.2M76.2 875.2l-2.7 1.2M81.9 875.6l3.1 2.6 .3 3.3M82 873.2l2-1.1 -.1-1.9 -3.2-2.9 3.9-2.6 .6 .6 -1.3 4.9M57.7 914.9l-2 4.1 1.8 2.5 3.1-.8 .7-1.2 -3.5-4.6 -.1 0 -3.4-2M46.8 904.4l.3-1.4M43.6 909.4l.5 3.9M45.5 908.6l2.2 .3M48.8 909.3l-1.3 2.1 -2.9 2.2M81 933.6l-2-1.3 2.4-3.1M134.9 953.8l-1.6 .3M136.6 957.9l1.4 .7M135.3 958.8l-.6 3.4M127.6 959.7l-.6-2.1 -3.1-.9 2.1-2.3 1.4-.7 1.1 .3 -1.5 3.6M127.6 959.7l2.7 .1 .4-.7M127.6 959.7l-2.8 1.9 .3 .8 4 1.4M130.3 959.8l.9 2.5M149.5 956.4l1.3 2M145.6 956.8l2.4-.7M81.3 928.6l-2.4-4.8 -1.6 .4 -1.2-2.2 .5-2.2 2.6-1 .4 3 -.5 1.9 -.2 .1M84.8 925.1l0-.8 .1-.2 -2-3.3 .3-1.7 -3.3-1.5 .2-2.7 -.2-.2 -1.8-.2 -2.9-4.4M79.9 917.6l-.5 .7 -5.6-1.2M80.1 914.9l3.2 0 2.6 1.9 1-1.1 -1.6-4.6 -2 3.8M83.2 919.1l2.7-1.1 0-1.2M79.9 936.9l1.3 .4M77.6 942.1l5-1.6 0-.3M85.1 938.5l1.6 3.9M82.6 940.5l1.5 1.7M172.1 859l1.8 5.5M170.8 858l-2.5-1.3M158.5 947.5l2.5-2.5 -.6-1.7M158.9 948.5l-4.1 3.1M152.7 949.5l1.8-2.8M147.1 932l.8 .5M147.1 932l.3-4.7 .4-.4 4.3 .6 0 0M147.1 932l-3 .5 -1.1 1.8 -.3 2.3 .1 .4 4.2 .1 .7 1.2 -2.8 3.4 .3 .9M142.8 937l-.6 1.7 2.7 3M152.1 927.5l.5 2.8M141.4 948.4l-1.5 .2 -.6-1.6 -.4-4.1 4.7 1.8M141.4 948.4l1.6-1M141.4 948.4l1.8 3.2M140 953.6l1.3 .7 -1.5 4.2M142.2 938.7l-.7 .4 -2.8 3.6 -2.4-.3 .8-3.5 1.3-1 3.1 1.2M148.4 947.8l.6-2.5M138.9 942.9l-.2-.2M127.1 918l-2.1 5.4 -1.2 .3 -.3 1.4 -.6 .2 -2.8 .5 -1 3.6 3.8-4.1M127.1 918l.7 .2 2-.8M127.1 918l-1.8-.7 -.8 .2 -3.2-3.9 2.9-1.8 1.4 .1 1.2 .5 -1.5 4.9M113.8 922.1l3.5 1.5 .2 1.1 -1.4 3.2 -2.3-.3 -1.4-1.4 1.4-4.1 -.6-1 -4.2 1.4 .3 3.5 -3 .8 -1.2 .6M130.2 951.8l-1.7-2.9 1.7-3.1 2.9 .5 .2 2.1M128.5 948.9l-3.6 .3 -.5-3.3 .5-.4 5.3 .3 0 0M114.8 938.9l4.4-.1 -.3 2.6 2.5 1.2 2-1.5 2.1 2.7 -.6 1.7M114.8 938.9l-1.1-1.8 0-1.1 1.2-.8 -.7-3.1 -2.2-1.2 -1.7 .6 2.3 4.2 1.1 .3M114.8 938.9l-.3 3.5 3.7-.4 .2 5.5 -4-1 -1.4-1.4 .1-.6 .8-1.6 .6-.5M119.2 938.8l.1-.2 1.1-.4 2.8-2.4 2.1 2.1 -.1 1.5 -1.3 .8 -3.5-2M154.7 941.1l-3.4-2.2 -1.1 .7 -.2 .9M144.6 898.8l-1.4 .8M142.8 895.3l-.9 1.9M136.5 904.6l-2 2.1M136.1 903.7l-2.2-1.5M132.3 902.4l-1.4 5.3M136.8 896.9l3.2 3.1M111.2 939.9l-2.3-.3 .5-3.2 -2.5-2.9 -.2-.9 -1.9-1.4 -.2 .2 -1.8 2.5 .2 5.7 1.1-.5 2.8-5.6M111.2 939.9l2.5-2.8M111.2 939.9l2.7 3M97.4 931.9l-2-3.4 -1.7-.7 -2.1 2.3M88.6 935.1l.8 .1M89.5 929.7l-2.4-.2M109.4 936.4l3.2-.7M108.8 939.7l.1-.1M108.8 939.7l-4.7-.6M108.8 939.7l-.1 1.3 -.9 2.9 -2.8-.2 .3 4.5 .2 .5 .3 0 3.5-3.1 -1.5-1.7M112.2 908.9l3.2-2.1 1.2 3.4 -1.7 1.4 -2.2-.6 -.5-2.1 -2.2-1.2 1-1.1 -.6-3.9 4 .1 .2 1.4 -3.6 2.4M101.9 885.2l0 2.8 -1.6 2.6 4.9 1.8 -1 2.8 3.9 .3 1.1-2.2 1.8 .6 -.7 4.5 3 .2M96.6 888.3l2.4 2.5 .6 .2 .7-.4M100.3 885l1.1-.2M147.8 926.9l0-1.7 .9-2M147.4 927.3l-3.2-.3 -1.2 4 -3.2-1.2 4.1-3 .3 .2M125 923.4l.7-.1 3 1.6 1.7-.1 .5-2 0-.1 -2.7-1.4 -2.5 2M144.1 932.5l-1.1-1.5M135 914.8l-2-1.5 -2.3 1.3 0 .9M121.2 902.8l-.6 3.3 .7 1.5 -2.2 3.2 -2.5-.6M122.8 902.1l.1 .1M127.3 905.6l1.8 2.4 -3.7 .6 -1.5-1.2 1.2-1.2M123.9 907.4l-1.8 .4 -.8-.2M154.1 903.5l-.2-1.6 4.2 .1 1.1 2.1M167 888.5l-1 3M169.2 888.9l-.6 4.5M146.1 879.6l2.7-2.6 -.4-1.1 -2.8-.7M150.9 882.7l.5-3 -.9-2.5 -1.7-.2M154 883.3l0-.1 2.3-1.2 1.7-.3 1.9 1M159.2 885.3l-.9 .3 -.5 .1M158.3 885.6l0 5.4 -1 .1M148.4 875.9l.3-3.2 -.4-.8M144.5 872.7l.5-.9M148.7 872.7l4.2 2 1.5-1.7 2.8 .4 1 3.7 -.8 .6 -1.7 .5 -.7 0 -2.2-2.7 .1-.8M157.4 867.8l.4 .2M154 871.6l-.1 .2 -4.6-1.2M153.9 871.8l.5 1.2M164.1 870.2l-.6-.7M162.7 872.7l-4.2-.5 -.3-3.5M158.5 872.2l-1.3 1.2M150.9 864.9l1.5-1.7M156.2 866.5l-.4 0M156.9 861.1l-1.6 0M150.2 859.3l-2.4-3.4 -1.1 .6 -.8 3.5 1.8 2.3M145.9 860l-4.3-.4 .7-3.7 4.4 .6M167.2 853.9l-1.6-4.8M135.2 880.4l1-4.4M128.9 880.8l-1.1-.4 -3 2M131.4 879.9l.5-2.3M138.8 870.8l1.4-2.3 4.1 1.6M136.1 870.6l-.5-4 .3-.4 3.3-.5 .6 .5 .4 2.3M139.8 866.2l4.7-1.5 1.4 .2M144.5 864.7l-3-4.7 -2.5 3.7 -2.9-2.3 -.4-1.9 4.4-.2 1.4 .3 0 .4M84.6 864.7l-.9-2.3 2.7-1.8 3 1.2 -2 4.1 -2.2-.6M83.7 862.4l-.6-.3 -3.7 .8M80.7 867.3l-1.7 .1M105.5 849.9l1.9 .5M105.5 849.9l-2.9 2.4 1.7 1.3M105.5 849.9l-2.1-2.2 .9-2 4.2 1.6 .2 1.7M84 872.1l.1 0 3.6-3.7 .9-1.7 -1.2-.8M88.6 866.7l.7 .1 2.5 2.4 2.8-1.3 -.1-1 -3-3 -2.2 2.9M110.9 861.3l0 0 -.1 3.7 -1.6 1 4.9 3.1 .3-.4 .5-1.7 0-.5 -4.1-1.5M104.1 856.1l-3.9 .9 -.2-1.5 1.3-3.3 1.3 .1M101.3 852.2l-.9-1.7 -3.2 1.2 -1.6-3.7 3.9-.3 1 1 -.1 1.8M101.4 879.8l-.3-1.6 -3.2-1.5 2-3.3 1.7 2 -.5 2.8M63.2 852l.1 2.1M62.2 854.4l1-.1M175.6 877.3l4.2-.4 .3 3.1 -3.3 2.2M185 899.9l-1-2.2 -.6-.2 -.6-4.1 .7-.9 2.5-.7 .1 0 .4 2 -2.5 3.9M161.9 901.8l-.5-2.3 -1.8-.3 -1.4-2 1.2-1.3 3.3-.7 1.4 3.2 -2.7 1.1M155.2 895l0 0M158.3 891l1.5 .1 -.4 4.8M159.8 891.1l1.8-.5M164.1 898.4l0 0M169.6 899.2l1.7-1.6 3.3 .2 .4 .4 0 .6 1.4 3.1M167.8 895.2l.4-1.2M183.1 910.3l-4.3 .6 -2.2-2.1 1-1.9M178.8 910.9l-.7 2.5M182.9 888l3.1 3.8M179.5 901.4l.6-4.6 -1-1.3 -.3-.1 -3.8 2.8M175 898.8l-3.8 1.5 3.9 3.3 -3.5 1.7 -2.6-4.2M171.2 900.3l-1.7 .1M176.6 908.8l-2.4 1.3M171.6 905.3l-.3 .7M175.5 903.4l-.4 .2M162 940.9l3.1 .1M161 945l1 .3M172.2 942.2l-4.8 1.7 .5 1.6M167.4 943.9l-.6-.7M171.1 926.8l3.7 2.4 -.5 .8M171.1 925.5l1.3-1.3 -.9-3.2 4.4-.5 .1 2.2 -1.2 1.7 -2.4-.2M171.1 920.7l.4 .3M167.6 924.3l-.4-1.6M162.8 933.6l1.1 2.7M167.3 935.5l-.4 1.6M163.3 927.2l-4.1-.8M159.9 923.2l-1.3 2.7M174.4 934l1.1 .4 1.7 2.2M174.8 929.2l1.5-.9 1.9 1 3.8-3.8M178.2 929.3l1.3 1.7M176.3 927.2l0 1.1M176.3 927.2l4.2-3.4 .1 0 1.3 .9M176.3 927.2l-1.5-2.8M183.4 910.6l-.2 1.7 -1.1 1.7M183.2 912.3l3.3 2.8 -3.4 2.9 .3 .6 .4 .3M176.3 919.6l-.4 .9M180.5 923.8l-4.5-1.1M180.6 923.8l0-1.9 -1.4-1.4M180.6 921.9l2.8-3.3M176.8 914.2l-2.9-3.4M181.9 916.7l1.2 1.3M65.8 846.3l3.8 0 .9 1.3 2.1-1.7 -.8-2.7 -1.8-.2 -.4 3.3M65.1 847.9l.5 1.9M66.2 850l2.8 3.4M70.6 848.3l-.1-.7M58 908.6l-3.3-1.2 -1.8 3.8 1.2 1.1M54.7 907.4l-.5-1.5M58.8 909.4l1.1 2.9M64.7 910.9l.1-.7M64.7 910.9l-.7 1.4M64.7 910.9l6.4 3.5M59.4 902.4l-2.9-1.1 .5-4.1M51 904.8l.1-.1M47.4 896.6l-5.5-1.1 .1 2.5 -.9 2.3 -1.6 .6M47.4 896.6l0 .8M47.4 896.6l1-1.5M48.3 894.8l-4.7-2.8M79.9 914.7l.5-3.8 3.9-.9 -.6-4.2 -.9 0 -3.1 .9 -.9 2.2 1.6 2M78.6 908.9l.2 0M85.8 891.2l-.5 1.2 -2.8 .4M78 889.4l2.6 1.9M75.4 890.1l-.4 .7 2.4 4.2 1-.5M71.1 899.7l-6.3-2.7M71.2 899.6l.5-1.9M67.3 896.3l4 .8M62.5 870.7l-1.3-1.1M58.1 872.6l.6-1.8M85 878.2l3-2.8 1.1 .3 1.8-5 -2.7 .6 -2.6 1.5 2.4 2.6M89.6 877.5l.3-1.1 2.7-.2 1 1.9 -2 3.8M91.8 882.8l2.9-.8 .6-3 -1.7-.9M91.8 882.8l-.3-.3M91.8 882.8l.8 3.7M41.1 900.3l2.8 1.3M42 898l3.2 1.2M41.9 895.5l-.5-.5 -2.7 .2M41.4 895l.5-1M45.6 920.1l1.4-1 .5-3.1 1.5-.6M70.2 944.6l-.9 3.7M70.2 944.6l3.5 2.8 -.2 1.6M70.2 944.6l-.1-.5 .5-1M55.7 919l-.8-.1 -2.2 2.8 -2.5-1.5 0 0 2.1-2.4 2.6 1.1M57.5 921.5l-1 2.5 .2 .7 .3 3.2 -2.6 1.3 -3-2.1 1.2-2.9 .8-.4 3.1 .2M50.2 910.4l2.7 .8M79 932.3l-2.3 .1 1.6 4.8M81.2 928.9l-4.4 .2 -.7 2.7 -2.9 .3 -1.7-1.1 .2-1.4 4.3-2.2 .8 1.7M77.3 938.2l-3.3-.8 0-.3 2.3-5 .4 .3M72.5 920l3.6 2M72.5 920l.5-2.3 3.6 2.1M72.5 920l-.8 1.2 -4.6-1.5 .8-2.2M129.4 953.9l-.9 .1M123.9 956.7l-1.8 .8 2.5 4 .2 .1M126 954.4l-3.5-1.4 .9-2.6 -4.5-1.3 -.9 1.8 3.6 3 .9-.9M127.4 953.7l-2.8-3.9 .3-.6M145.1 956.8l-.9-1.2M141.3 954.3l.7 0M108.7 941l4.4 3.5M82.9 920.8l-3.3 1M84.9 924.1l2.3-1.6 0-2.9 3.7-1.1 .7 5.7 -4.4-1.7M84.8 924.3l-5.7-.6M85.9 918l1.3 1.6M150.2 939.6l-2.5-1.3M151.3 938.9l1.2-2.9M147 937.1l1.5-3M157.3 930.8l-4.6-.5M139.3 949.2l-5.8-3.2 .4-.6 5.4 1.6M139.3 949.2l.6-.6M117.3 923.6l3.4-3.1 1.1 .2 2 3M123.5 925.1l.2 .5 -.8 5 -4.1-.6 .3-.6M123.2 934l-5.2 .3 .4-4.2 .4-.1M123.2 934l.9-1.9 -1.2-1.5M123.2 934l0 1.8M119.3 938.6l-1.8-3.5 .5-.8M132.7 939.8l2.6 2.8 -1.4 2.8M132.7 939.8l0-.2 2-2.8 2.4 2.1M132.7 939.8l-3.3 3.3 .8 2.7M135.3 942.6l1-.2M133.1 946.3l.4-.3M134.7 936.8l.1-.3 2.1-1.6 1.5 3M132.7 939.6l-2.3-1.2 -3.1 2.8 0 .4 2.1 1.5M130.4 938.4l-.9-1.8 -.9-.5 -1.5-4.2 1.2-1 2.7-.1 1.3 1.5 -.1 2 -2.7 2.3M124.4 945.9l-1.8-.7 -1.2-2.6M124.6 949.8l-1.2 .6M123.4 941.1l.5-.9M125.5 943.8l1.8-2.2M127.3 941.2l-2.1-1.8M130.7 914.6l-2.3-2.6 1.6-3.4 .5-.2M133 913.3l1.2-2.7M101.7 923.6l.4-1.6 -2.8-2.3 -.6 .2 -1.3 3.8 1.1 1.7 .9 .3M104.5 928.7l.3 2.5M104.8 926.6l.2-3.9 1.8-.4 1-.6 -.7-3.4 -.2-.1 -2.3 1 -1.4 2.5 1.8 1M97.4 932.1l7.2-.7M96.3 936.7l1.6 2.2M97.6 933l2.5 2.3 2.7-1.4M100.1 935.3l1 3.9 1.4 .7 .5-.3M112.7 911l-1.1 .9 1.7 3.2 -2.2 2 -.1 0 -1.8-4.5 2.4-.7M114.9 911.6l.1 1.2 5 .2 -.9-2.2M111 893.9l1.6-.1 1.5 .2M110.3 898.4l-1.5 .6 -.8-.4 -3.4 .4 .7 2.2 2.2 3.1 2.2-1.8 -.9-3.5M114.8 902.2l-.4 .6M95.1 915.5l4-.8 -.1-1.5 -3.1-3.5 5.3 .2 .4 1.1 -2.6 2.2M95.1 915.5l-1.1-4 1.9-1.8 0 0M95.1 915.5l-.2 .4 -3 1.4 0 0 2.5 3.3 2.7-1.1 -2.2-3.6M95.9 909.7l0-2.6 -6 1.3 2.8 3.2 1.3-.1M98.7 919.9l-1.6-.4M99.1 914.7l1.4 1.7 0 .7 -1.2 2.6M109.3 926l.5 .3 0 5.1 -3.1 1.2M106.3 926.8l.5-4.5M101.9 888l4.7 1.5M112.6 893.8l-1.2-4.8M115.2 889.8l-3.3-1.4M146.2 921l-1.9 1.2M147.8 925.2l-3.7-2.6M123.7 925.6l3.2 1.7 1 1.7 .4 1.9M124.1 932.1l3-.2M135 919.4l1.1 1.3 -.2 1.9 -.7 1.1 0 2.3 -1.3 1.4 3.6 4 1.8-1.7 -.1-3.1 -4-.6M133.1 927.6l-2.4-2.3 -2.8 3.7M133.1 927.6l-2.1 3.2M133.1 927.6l.8-.2M137.4 932l5.6 2.3M137.4 932l-.1 .2 -.1 2.3 5.5 2.1M137.4 932l.1-.6M120.6 906.1l-5 .1 -.2 .6M115.6 906.2l-1-2M150.5 877.2l2.3-1.7M151.4 879.7l3.3-1.1 -.7 4.6M160.7 877.5l-2.5-.4M161.2 881.6l-.2 .5M151.7 854.3l.4 4.2 3.5-2.8 -.2-.4 -3.7-1 -.2-.2 .7-2.7 3.7-.6 .7 1.6 -1.2 2.9M152.1 858.5l-.1 .3M157.2 857.6l-1.6-1.9M160.3 855.8l1.7-2.4 1.9 1.3M162 853.4l0-.1 -5.4-.9M142.4 845.3l-2.7-1.6 -2.5 1.7 .2 1.3 .4 1 .1 .1 3.7-.3 2.3 2.2 -4.6 1.6 -.8-.8 -.6-2.7M142.4 845.3l-.8 2.2M142.4 845.3l.6-.2 2.7 2.9 -.4 1.5 -.5 .4 -.3 2.1 3.6 3.3 -.3 .6M127.8 880.4l-.5-.9 -5-.8 -.7-2.2 2.5-1.4 3.2 4.3 0 .1M121.8 881.5l.5-2.8M115.2 873.4l3.5 .5 -4.1 5.7M114.1 870l0-.9 -5.4 .3M109.2 866l-1.5 .8 -.3 1.8M114.1 869.1l0 0M114.9 867l6 2.1 0 .7 0 .2 -1.1 1.1 -5.4-2.4M141.6 859.6l-.1 0M83.1 862.1l-1.2-4.5 -2.9-.4 -1 .2 -1.3 2.2 -.1 0 -4.2-.9M78 851.9l-1.5 2.8 -3.4-.2M78 851.9l-3.6-2.3 -2 .8M78 851.9l.2-.1 2.2 1.3 1.5 .3 .9-2 0 0 -3.2-2 -1.4 2.4M71.6 852.8l-2.5 .7M74.4 849.6l1.6-3.4 3 .9 .8 1.4 3.4-.5 -.4 3.4M111.9 849.9l4.1 1.3 1.1-1.8 -.8-1.7 -3.2-1.5 -1.7 3.3M84.1 872.1l1.5 .7M87.7 868.4l.5 2.9M88 840.9l-3.3-2.4 .7-2.3 5.2 1.4 -.6 2.7 -2 .6 -1.1 2.1 2 2 2.3-2 -1.2-2.7 0 0M103.4 847.7l-2.9 1M110.9 861.3l3.6 1.3 .7 3.3 -.3 .6M111.1 860.2l-1.2-4.6M100 855.5l-3.5-2.6 .7-1.2M100.2 857l0 .1 -3 .4 -2.8-2.9 .8-1.3 -1.8-3 1.9-2.5 -1.2-2.4 .1-.8 -3-1.6M94.4 854.6l-2.8 1.2 -1.2-1.4 -3.4 .6 .1 3.7 -.1 .1 -4-2.6 .2-.7 2.5-1.1 1.3 .6M86.4 860.6l.6-1.8M89.4 861.8l.7-.1 1.5-3.7 -.1-.2 .1-2M89.9 876.4l-.8-.7M171.7 871.2l.1 3.5M174.1 875.7l1.6-4.4 -2.9-.3M183.6 881.3l1.6-1.4M181.3 881.4l-1.2-1.4M179.8 876.9l.2-.2 -.9-3.9 -2.7-2 -.7 .5M186.2 891.8l-.1 0M187.5 899.5l1.5-2.8 3.8 1.6M157.9 897.1l.3 .1M158.1 902l1.5-2.8M153.7 901.7l.2 .2M162.7 895.2l.3-1.2M168.4 893.6l.1 0M174.6 897.8l-1.2-2.5M171.3 897.6l-.1-2.4M174.3 893.4l3.6-.2 .9 2.2M177.9 893.2l.4-1.6M179.2 890.4l4.3 2.1M166.6 943l-.4-1.6M175.5 934.4l3.8-3.1M187.9 915.2l-1.4-.1M65.3 843.9l3.4-1.7 -5.2-3.1M61.2 843.5l0 3.5M60.3 848l-3.2-1.2M86.9 832.3l-1.7 3 -1.9-.6 -1.6-1.4M73.1 842.8l2.8 3.4 -3.3-.3M73.1 842.8l-1.3 .4M73.1 842.8l2.1-3 1.4 .2 .9-1.9 -1.9-4.8M75.9 846.2l0 0 1.8-5 -1.1-1.2M70 843l-.8-.9 .1-.9 -5.5-2.6M75.2 839.8l-2.1-1.6M60.6 920.7l2.9 3.9 -.1 .3 -6.7-.2M61.3 919.5l1.6-1.1 .6-2.3M57.8 914.9l0 0M53.3 895.7l1 .3M53 895.9l-.8 4.1 -3.8-.8M52.2 900l.8 1M60.6 900.5l-2.3-3.8M64.4 897.3l-.2 1.3M60.7 895.1l-1.1-.1M43.8 890.8l-.4-.9 -3.8-2M43.4 889.9l2.1-2.4M73.3 910.3l-.4 1M78.1 914.5l-1.2 .3M91.2 894.1l-1-2.4M91.2 894.1l-.7 .4 -4.4-.3 -.8-1.8M91.2 894.1l2.3 .6 .7-1 -.2-4.6M77.4 895l-.4 1.4M75 890.8l-2.9 1.1M76.3 896.8l-1-.1M43.5 882.3l-.3 .2M98.7 880.6l-1.8-1.8 -1.6 .2M96.5 882.9l-1.8-.9M47.6 924.4l2.2-1.3 2.8 1.1M59.1 931.7l0-1.5 -1.6-2 5.5-2.5 -.5 3.9 -3.4 .6M59.1 931.7l2.4 2 2.3-3.2 2.7 .6 -2.5 4.3 -2.1-.8 -.4-.9M59.1 931.7l-2.7 3M53.3 931.8l1.1-2.6M75.7 945.1l-2 2.3M49.8 923.1l.4-2.9M47.5 916l-.4-.3 .4-4.3M47 919.1l3.2 1.1M51.8 916.3l.5 1.5M76.3 932.1l-.2-.3M70.1 944.1l-1.7 .1 -1.9 2.3M73 917.7l-.1-.3M79.4 918.3l-.2 .5M75.9 925.6l.1 1.8M75.9 925.6l1.4-1.4M75.9 925.6l-3.4-.8 -1.7 1.8 -1.9 0 -2.1-2.9 4.7-1.5 1 2.6M125 963.9l.1-1.5M119.2 838.2l.1 .2 1.4 0 1.9 4.2 2.2 0 1.6-.7 0-1.6 -1.6-1 -4.1-.9 0 0M119.2 838.2l.3-5 1.7 .5 1.8 1.8 1.3-.3 1.5-1.4 -.2-1.1 -.8-.6 -3.6 1.6M119.2 838.2l-4.7-2.8 -1 4.2 4.7 .5 -.1 2.7 -.9 .6 -2.8 0 -1.9-3.1 1-.7M122.6 842.6l-2.5 1.6 .5 1.3 3 .1 1.2-3M119.3 838.4l-1.1 1.7M117 831.6l-3.2-3.7 0-.5M117 831.6l0 0 1.3-6.8M117 831.6l-2.6 2.2 -3-3.6 -1.8 3.5 .2 .3 1.3 1.1 3-.6 .3-.7M117 831.6l1.8 .3 2.4-2.1 1.5-.2 -1.1-5.1M125.6 827l-2.3 2.7 -.6-.1M146.9 835.6l-.3-.4 .6-3.7M146.9 835.6l1.9 .5 2.4-1.2M146.9 835.6l-2.3 2.8 2.8 2.6 1.8-1 -.4-3.9M154.4 837.8l-.6 2.3 .1 .2 -1.1 4.5 1 1.5 1.6 .1 2.4-2.1 .2-.4 -4.1-3.6M160 841.3l-1.9 2.6 2.9 1.6 4.8-2.1M162 853.3l.5-2.8 .7-.8 1.9-.9M129.5 828.8l-2.8 3.1 4.6 1.1 .8-2 .1-1.4M120.1 925.8l-2.6-1.1M116.1 927.9l1.3 1.7 1 .5M109.8 931.4l.5 .1M109.8 926.3l2.6-.1M113.8 927.6l-1.8 3.3M117.5 935.1l-2.6 .1M117.4 929.6l-3.2 2.5M125.3 937.9l3.3-1.8M134.8 936.5l-2.6-2.2M137.3 932.2l-5 .1M136.9 934.9l.3-.4M122.6 945.2l-4 2.4 -.2-.1M118.9 941.4l-.7 .6M129.1 908l.9 .6M125.4 908.6l.2 3.3M128.4 912l-1.6 .4M91.9 943.2l-2.4-1.2M91.9 943.2l2.6-.7M91.9 943.2l-.8 3.8 2.4 1.4 -.9 2 -4.1-1.7 1.2-1.2 1.4-.5M87.3 942.1l-.5 .3M91.7 953.2l3.1 1.1 1.7-.8 -.2-3 -1.8-2.2 1.8-2.5 2.5 1.9 2.3-4 .5-.1 .3 1.8 -.9 3.9 -1.6-.6 -.6-1M91.7 953.2l.9-2.8M91.7 953.2l-1.5 .4M96.3 945.8l0-1.4M96.3 950.5l3.1-1.8M94.5 948.3l-1 .1M102.6 942.2l-1 1.4M102.6 942.2l2.4 1.5M102.6 942.2l-.1-2.3M101.1 939.2l-1.5 0M115 914.4l0-1.6M115 914.4l-1.7 .7M115 914.4l1.9 1.3 3.3-2.3 .1 .1 .1 6.7 -.3-.2 -3.1-3.2 -.1-1.1M108.1 895.5l-.1 3.1M109.2 893.3l-1.2-1.7M104.2 895.2l-1.2 1.7 -2.9-1.9 -.5-4M105.2 892.4l1.9-1.2M110 907.7l-.8 .1 -1.8-3.3 .1-.2M109.2 907.8l-.7 1 0 3.5 -3.4 1.3 -.9-1.5 .8-3.4 3.5 .1M107.4 904.5l-4.3 1.6 -.3-.8 -2.1-3.2 -4.7 4.4 0 .3 5.5 .5 1.6-1.2 0 0M104.6 899l-1.2-.6 -.4-1.5M105.3 901.2l-2.5 4.1M109.7 902.5l.7 .2M92.2 924.7l1.5 3.1M95.4 928.5l3.1-3.1M97.4 923.7l-4.1-.1 -1.2 .8M93.3 923.6l1.1-3M91.7 924.3l-.1-.1M101.2 909.9l.3-2.6M101.6 911l2.6 1.1M102.1 922l1.1-.3M109 922.5l-1.2-.8M113.2 921.1l.1-1 0-.1 -2.2-2.9M132.3 919.9l-1.4 2.8M127.8 918.2l.4 3.1M130.7 925.3l-.3-.5M126.9 927.3l1.8-2.4M139.8 929.8l-.5-.1M143.9 926.8l-1.9-2.3M135.2 923.7l-4.3-.9M158 881.7l-.6-4M148.1 855.3l.8-.7 2.6-.5M142.3 855.9l-.3-.7 2.5-3.2M137.4 846.7l-6.5 1.7 1.4-3.2 -1.8-2.2 -3.2-.2 0 1.9 2.9 4.8 .1 0 .6-1.1M137.8 847.7l-5.6 3 .5 .7 3 .7 2.8-1.6M132.2 850.7l-1.9-1.2M139.7 843.7l1.6-4.2 3.2 3.6 -1.5 2M141.1 839.3l-5.7 2.3 .3 2.7 1.5 1.1M141.1 839.3l-.8-1.5 -4.9-.1 -1.8 1.5 1.8 2.4M141.1 839.3l.2 .1 3.3-1M130.9 876.2l-2.4-1 -1.2 4.2M128.5 875.2l-.4-.6 -2.7-1.2 -1.3 1.7M118.7 873.9l.1 0 1-2.8M116.6 880.4l4.2-4.2 -2-2.3M120.9 870l4.5 3.2 0 .2M120.8 876.2l.8 .3M129.9 849.7l-4.5 .8 -.9-1.4 .2-1.8 -1.1-1.7M129.9 849.7l.3-.2M129.9 849.7l-.8 5.1 -1.6 .8 -3.2-2.9 1.1-2.2M126.4 840.3l.7-.8 5.8-.1 .3-.2 -2.6-4.1 -2.4 .6 -1.1 3.8M137.3 855.4l2.6-1.4 2.1 1.2M137.3 855.4l-.6 .2 -1-3.5M137.3 855.4l2.8 3.9M78 857.4l-1.5-2.7M81.9 857.6l1.1-1.4M79 857.2l1.4-4.1M76.6 859.6l-2.7 4.1M76.7 859.6l2.4 3.1M74.6 864.8l.2 .1M116 851.2l0 2.6 -1.9 1.4M113.1 846.2l-.2-.7 1.5-2.1M84.7 838.5l-1.8 1.4 -.2-.1 -4.6 1.5 2.6 3.2 3.2-.3 0 0 -1-4.3M85.2 835.3l.2 .9M90 840.3l4.9 .5 -.1-3.7 -3.6-.2 -.6 .7M91.2 836.9l-.7-4 -.4-.6M103.8 843.9l-4.2 1.2 -1.3-1.9 -2.8-.1 -.3-1.6 -.3-.7M103.8 843.9l.4 .5 .1 1.3M103.8 843.9l-.8-4 5.2 1.1 1.6-.3 .4-.4 -.5-1.7 -3.5-2.1 -1.3-.2 -1.9 1.8 -.4 1.3 .4 .5M115.2 865.9l3.4-1.2 2.7 2 -.4 2.4M114.5 862.6l1.9-2.4 -1.8-1.6M90.4 854.4l-.3-2.9 -3.3-1.4 -.4-1.8 2.6-1.9 1.7 .6 .5 3.5 -1.1 1M91.5 857.8l-4.4 .9M92.6 876.2l1.7-2 3.2 2.8 -.6 1.8M90.9 870.7l.7-.5 2.7 4 0 0M176.4 870.8l.3-1.9M172.3 866.5l1-.8 2.9 2.2M179.1 872.8l2.8-1.7M180 876.7l3-.5M191 894.4l-2.1 1.5 .1 .8M188.9 895.9l-2.4-2.1M190.1 901.5l2.7-.7M188.6 905.3l3.9 1.1M180.1 896.8l3.3 .7M179.1 895.5l3.7-2.1M62.9 918.4l3.4 2 -.3 2.9 -2.5 1.3M63.4 925l0-.1M63.4 925l-.4 .7M63.4 925l3.5 4 -.3 2.1 -.1 0M66.9 929l2-2.4M68.9 934.9l-.6-2.9 3.2-1M68.9 934.9l1 .8 2.9-2.1 1.2 3.5M68.9 934.9l-1.8 1.3 1 3.6 .2 0M68.3 932l-1.7-.9M56.5 901.3l-.2 .1M55.4 896.7l-1.5 4.3M77.9 902.9l1.8 3.8M79.3 901.9l.3 .1 4.9 0 .6 2.3 0 0 3.8-2.6 -1.9-2.1M82 895.3l.7 1.6M90.5 894.5l-2 3.7 3.1 1.5 2.9-.9 .2-2 3.5-.8 1.9-1M86.1 894.2l-.7 1.9M47.1 915.7l-1.4-.6M49.5 927.5l1.9-.4M53.4 923.8l-.7-2.1M57 927.9l.5 .3M62.5 929.6l1.3 .9M69.9 935.7l1 1.8M72.8 933.6l.4-1.5M74 937.4l-1.1 .6M68.4 944.2l-3.8-1.6 -.8 1.5M71.7 929.6l-.9-3M122.1 957.5l-1-.4 -.1 0 -1 1.6 .3 4.5 -.5 .6M120 958.7l-4 2.9 3.1 2.1M124.6 961.5l-4.3 1.7M99.8 953.6l3.5 3.4 1.1 .3 .4-.4 1.2-2.6 -.7-1.1 -5.4 .3 1.6-3.6 2.7 0 1.1 3.3M99.8 953.6l.1-.1M99.8 953.6l-1.3 .4 -2-.5M103.3 957l-2.7 1.3 -2-2.1 -.1-2.2M104.4 957.3l0 1.1 .8 1.6 4.9 .4 .1 0 .1-1.6 -5.5-1.9M115.9 961.6l.1 0M115.9 961.6l-1 .7 -1.4 3.6 -4.8-2.1 1.4-3.4M115.9 961.6l-.7-2.7 -3.4-2.4 -1.5 2.3M77.8 948.4l.8 .1 2.2-1.3 .3-1.5M78.6 948.5l.3 4.2 -1.2 1.2M80.8 947.2l1.5 2.3 -1.7 2.6 -1.7 .6M92.7 911.6l-1.6 1.2 -.2 3 -3.3-.4 1.1-3.2 2.4 .6M90.9 915.8l1 1.5M87.6 915.4l-.7 .3M88.7 912.2l-1.6-1.9 -1.7 .4 -.1 .4M124.8 839.3l-.5-4.1M120.7 838.4l2.3-2.9M123.3 829.7l1.5 2.4M118.8 831.9l.7 1.3M132.1 831l3.7 3.3 -.4 .7 -4.5-.2 .4-1.8M146.2 830.3l-2.3 3.6 2.7 1.3M143.9 833.9l-1.1-.2 -2.4 3.1 -2.8-3.4 .4-1.8 4.5 1.3 .3 .8M158.1 843.9l-.1 0M161 845.5l2.2 4.2M159.8 849.3l2.7 1.2M159.8 849.3l-3.6 .5 -.3 1M159.8 849.3l-2-5M118.6 947.6l.3 1.5M101.9 945.4l3.4 2.8M101.1 943.7l-4.2 .5M101 949.3l.5 .6M104.2 949.9l1.3-1.2M105.8 948.7l3.3 2 -2.7 3.5 5.4 1.2 .6-.9 0-2.3 -2.1-1.7 -1.2 .2M109.3 945.6l1.4 .3 2.3-.8M88.5 948.7l-.9 .8 -1-.4 -2.5 .8 -.2 3.3 1.9 2M89.7 947.5l-2.9-4.6M113.3 920.1l6.8-.1M113.3 920l3.7-3.2M120 913l.2 .4M122.1 907.8l2.1 4M99 890.8l-4.8 2.9M94.7 896.8l-1.2-2.1M91.9 917.3l-1 1.2M100.5 916.4l4.4-2.2 2 4M100.5 917.1l4.1 2.1M104.9 914.2l.2-.6M107.1 918.3l3.9-1.2M139.2 926.6l1.4-1.8 -4.7-2.2M136.1 920.7l3.7-.6M140.6 924.8l.5-.4M156.3 882l-.6-3.8M154.7 878.6l.3-.4M144.8 849.9l-.9-.2M139.9 854l-.6-2.7M128.1 874.6l2.8-2.8 -3.2-3.1 -.2 0 -2.1 4.5M127.5 868.7l-.1-.1 -6.5 1.2M126.4 841.9l.9 .9M135.7 844.3l-3.4 .9M133.6 839.2l-.4 0M136.7 855.6l-2.2 1.7 -1.5-1.7 -2.1-.1 -1.8 3.3 2.9 .9 2.4-1.6 .1-.8M132.7 851.4l.3 4.2M124.7 847.3l2.6-2.6M116.3 847.7l.9-4.3M117.1 849.4l1.8-.4 1.3-1.2 .4-2.3M120.1 844.2l-2-1.4M108.5 847.3l.8-2.1 -3.3-1.2 -1.8 .4M112.9 845.5l-2.9-1 -.7 .7M114.5 835.4l-.4-.9M94.8 837.1l1.2-.8 2.9 2.6 -3.7 2.6M101.1 833.5l.1 2.4 1.8 2.2M101.1 833.5l3.9-.4 -.1 3.2M101.1 833.5l-2.3-2.6M113.8 827.9l-2.4 2.2 -2.6-1 -.2-1.3M105.5 831.8l.9-.2 2.4-2.5M105.5 831.8l-2.2-2.3 1.1-3M105.5 831.8l-.5 1.3M103.3 829.5l-3.4 .3M79.8 848.5l-.2 .9M83.3 834.7l-2.8 2.3 -1-.3 -.3-2.7M77.5 838.1l2-1.4M80.5 837l2.2 2.8M93.4 850.3l-2.2 .2M96.5 852.9l-1.3 .4M95.5 843.1l-1.3 1.5M98.3 843.2l2.6-3.4 -2-.9M94.1 845.4l-3.4 1.6M99.6 845.1l-.1 2.6M95.3 847.8l.3 .2M116.4 860.2l.6-.1 1.4-4.2 -.4-.8 -.5-.5 3.5-2.9 2.8 1.3 -.2 .3 -5.6 1.8M117 860.1l1.8 1 .3 .7 3.6 .7 .7-3.9 -.7-.6 -.8 0 -3.1 3.1M116 853.8l1.5 .8M118.4 855.9l3.5 2.1M127.4 868.6l-2.9-3.7 -.3 0 -2.9 1.8M124.5 864.9l.4-.4 .3-5.7 -1.8-.2M118.6 864.7l.5-2.9M124.2 864.9l-1.5-2.4M83.2 855.5l-1.3-2.1M85.7 854.4l.2-3.1 -3.1 .1M91.6 870.2l.2-1M105.6 869.8l-4-2.1 -2.1 2 .4 3.6 -4.1-.1 .5-4.5 3.2 1M107.7 866.8l-1.9-3.4 -4.6 1.6 .4 2.7M105.3 870.9l-5.4 2.5 0 0M104.8 875.5l-3.2-.1M97.5 877l.4-.3M99.9 873.4l0-.1M94.3 874.2l1.5-1M69.9 839.1l-.6 2.1M69.2 842.1l-.5 .1M66 923.3l.8 .4M67.1 919.7l-.8 .7M71.7 921.2l-.2 1M64 935.4l.4 .8 2.7 0M61.9 934.6l-2.7 2.4 -.9 .2M79.6 902l3.2 3.8M84.5 902l.1-.5M59.2 937l4.6 2.7 .6-3.5M68.1 939.8l-3.6 .8 .1 2M63.8 939.7l.1 .2 -4.6 1.6M104.4 958.4l-2.6 2.9 -2.4-1 1.2-2M106 954.3l.4-.1M94.8 954.3l-.3 3.7M85.6 946.7l1 2.4M85.1 904.3l3.8 1.6 .2 2.1 -2 2.3M85.1 904.3l-1.4 1.5M85.4 910.7l-1.1-.7M121.2 829.8l-2.7-5M126.7 831.9l-1.1 .8M130.9 834.8l-.3 .3M125.8 833.8l2.4 1.9M137.7 830l.3 1.6M143.1 828.4l-.6 4.5M153.8 840.1l-2.8 .8 -.4 2.6 2.2 1.3M156.2 849.8l-.8-3.4M121.1 957.1l.5-3.2M121 957.1l-3-1.1 -2.8 2.9M110.7 945.9l-.4 4.6M114.4 946.5l-.8 4.8 4.2-.2 .2-.2M121.8 920.7l2.7-3.2M120.7 920.5l-.3-.3M98.2 896l1.4 4.7 -4.8-1.3 -.3-.6M103.4 898.4l-2.8 2.7 -.7-.3 -.3-.1M88.9 901.7l.2 .1 .5 3.4 2.3-.8 -1-3.4 -1.8 .8M88.5 898.2l-1 .4M91.6 899.7l-.7 1.3M94.8 899.4l-.3 4.9 5.4-3.5M94.5 904.3l0 .2 -2.6-.1M100.6 901.1l.1 1M108.5 912.3l.7 .3M105 908.7l-1.9-2.6M127.7 868.7l1.2-.9 .9-3.4 -2.5-1.4 -2.4 1.5M130.9 871.8l2 .3M133.3 871.9l-.5-3.6 -1-.7 .3-2.2 2.9 1.5 -2.2 1.4M130.5 843l2.4-3.6M118.9 849l2.1 2.7M120.2 847.8l4.3 1.3M124.3 852.7l-.5 .3M112.5 840.3l-2.3 0M110 844.5l-.2-3.8M106 844l2.2-3M100.9 839.8l1.7-.4M101.2 835.9l-4.6-1.2 -.6 1.6M96.6 834.7l0-1 -6.1-.8M106.4 831.6l3.2 2.1M111.4 830.1l0 .1M85.9 851.3l.9-1.2M83.2 848l1.4-.9 -.7-2.9M77.7 841.2l.4 .1M79 847.1l1.7-2.6M76 846.2l-.1 0M123.6 853.3l-.9 4.7M139.2 865.7l-.2-2M90.1 861.7l1.6 1.7 -.2 .5M91.6 858l3 1.9 -.3 2.4 1 1.2 3.3 .2 -.1-2.1 -3.4-1.9 -.5 .2M100.2 857.1l.3 1.3 1.4 1.4 4 .9M97.2 857.5l-2.1 2.2M95.8 868.3l.5 .4M95.8 868.3l-1.2-.4M95.8 868.3l3.3-4 1.9 .5 .2 .2M91.7 863.4l2.6-1.1M173.3 865.5l0 .2M64.5 940.6l-.6-.7M98.6 956.2l-1.9 3.8M114.9 962.3l-4.7-1.9M113.5 965.9l.7 2.3M105.2 960l.5 4.1M108.7 963.8l-.5 .3M82.3 949.5l1.8 .4M80.6 952.1l1.6 1 -.7 3.4M82.2 953.1l1.7 .1M89.9 908.4l-.8-.4M88.9 905.9l.7-.7M94.5 904.5l1.5 2M95.9 907.1l.1-.3M140.3 837.8l.1-1M135.4 837.7l0-2.7M135.8 834.3l1.8-.9M153.8 846.3l-2.7 1.8 -.3 1.2 1.4 2.1M150.6 843.5l-1.7 1.1 -2.1-2.4 -2.1 .9 2 3.5 1.9-.9 .3-1.1M149.2 840l1.8 .9M148.9 854.6l-.9-4.2 -2.7-.9M145.7 848l1-1.4M148 850.4l2.8-1.1M151.1 848.1l-2.5-2.4M117.8 951.1l-.6 4 .8 .9M113.6 951.3l-1.2 .9M120.3 913.5l1 .1M128.9 867.8l2.9-.2M109.7 838.6l1.4-3.5M106.2 836.5l3.6-2.5M91.3 830l6 1.4M96.6 833.7l.8-2.2M88.9 845l.1 1.4M84.6 847.1l1.8 1.2M86.9 843l-3 1.2M135.7 859.5l-1.3-1.4M136.1 861.4l-1.9 2.4 1.7 2.4M125.2 858.8l1.9-.1 .4-3.1M129.1 854.8l1.8 .7M127.1 858.7l.2 .1 .3 2.9 -.3 1.3M127.3 858.8l1.8 0M105.8 863.4l.5-1.8M94.5 866.9l.8-3.4M103 964.5l-1.2-3.2M99.4 960.3l-2.3 .7M87.6 949.5l1.2 3.6M147.4 841l-.6 1.2M144.5 843.1l.2 0M141.3 839.5l0-.1M111.8 956.5l0-1.1M117.2 955.1l-4.8-.6M131.6 861.6l-4 .1M131.6 861.6l.2 2 0 0 -2 .8M131.6 861.6l.4-1.9M134.2 863.8l-2.4-.2M131.8 863.6l.3 1.8M135.6 866.6l-.6 .3M100.5 858.4l-2 3.2M101.9 859.8l-.9 5M99.1 864.3l-.5-.6"/>
<path fill="#6dfa9c" d="M266.7 848.8l-3.5 2.7 .8 2.2 -.9 1.4 -.2 2.9 -3.9-.4 -1.5 2.4 -.8 1.9 .1 .6 -1.6 2.3 -.9 .3 -1.1 0 -1.6 3 1.3 3.3 -2.4 1.1 .4 3.6 -3.8 1.1 -1 1.9 1.8 3 .3 2.1 -2.5 .3 -2.8 2.2 -.4 1.8 .5 2.5 .6 1 1.5 .7 1 3.6 -1.4 1.8 3.8 3.3 -1.4 2 -3.4 .7 -1.1 1.3 3.3 3.3 -.4 1.9 .5 .9 -.4 1.1 .4 4.3 -2.6 .6 .5 2.9 -1 3.2 .3 .6 -1.1 3.1 3.1 1.5 1.6 3.4 -.5 1.3 3.1 3.4 2.3-1.3 4.1 1.9 .2 .3 5.5 1.1 -.3 6.1 3 .4 3.4 4 -.1 1.1 3.9 1.2 2.8-1.3 2.3 3 3.9-1.6 .3 .2 .9 3.2 1.6 .2 2.5 1.6 2.5-.4 -.3 2.5 3.5 1.3 1.7-.2 .7 .9 1.6 .1 2.2 2.1 4.8-.8 .1 1.9 1.8 2.6 4.8 1.8 2.6-2.1 1.6 1.9 .5 1.5 4.6 0 .3-.2 1.4-.3 1.6-2.6 .4-.3 4.2 .2 1.5 2.2 2.1-.7 1.3-1.4 .3-1.9 .9-.6 3.6 1.2 .8-1.5 2-.3 1.2 1.1 2.9 .1 1.1-1 3.3 1.5 1.3-.6 .3-.6 3-1.5 1.4 .2 2.8-2.6 1.1 .6 .8-.3 2.4-2 1.8-.4 .4 .1 3.3-3.1 -.8-1.7 1.7-1.6 .4-1.3 2.5-.9 1.9 1 1.6-.1 1-1.6 -.9-3 3.5-3.5 .8 .1 1.2-1.9 -1.3-4.5 .6-.6 2.9 0 .4-.4 .8-2.6 -1.1-2.2 -.1-.9 1.4-1.1 .1-4 3.6-1.2 .3-1.1 -3-4.2 0-.9 1-1.1 -.4-4.5 3-.4 1.9-2.3 -3.6-.7 .7-3.5 -.3-.4 1.1-2.2 -.2-2.9 -3.6-2.9 0-.8 3.1-1.7 1.4-2.8 -1.3-2.1 .6-2 -.7-2.4 -2.9-1.6 1.8-3 -1.2-3.1 -1.9-.6 1-4.1 -2.6-.9 -.1-.8 2.8-3.3 -4.5-1.8 2.3-2.5 -2.1-3.1 2.7-2.4 -2-2.3 -2.1 .1 -2.6-3.7 0-.5 -.5-.8 1.4-3.5 -.1-1.1 -4.8-.1 1-4.4 .7-.8 0-.7 -1.2-1.4 -4.9-.3 -.2-1.5 -3.6-1.7 0-2.2 -1.6-1.3 -.8 .3 -2.6-.2 -.9-3.2 -.6-.5 -3.2 2.1 -2.5-4.6 .1-.6 -1.9-1.3 -3.4 1.4 -1.5-1.2 -3 .4 -.8-1.8 -1.8-1.1 -4.9 .5 -3.4-1 -.3 2.5 -2.7 4 -2.3-2.4 -.7-1.5 -4.1 .8 -1.3-1.4 -2.4 1.4 -3.1-2.1 -1.1 .4 -.9 1.7 -2 1 -.8-.6 -4.9-.9 -1.2 .9 -1 .3 -2.4-.3 -.8 .5 -4.7-.3 -.6 .3 -.8-.2 -3.2 1.2 -1.4-.1 -1.4 2.2 .3 2.1 -3 3.9 0 .9 -4.3 .7 -.8 .6 -1.7 .7 -.9 4.2 -1.1 .1 -2 1.2 -1.9 1.8 -.8 4.8z"/>
<path fill="#fa8560" d="M303.1 823.2l-1.2 .9 -1 .3 -2.4-.3 -.8 .5 -4.7-.3 -.6 .3 1.6 4.7 -.1 .4 -4.3-1.1 -.9 2.8 -2.8-1.6 -3 3.9 0 .9 1.3 1.1 -.1 2.3 3.7 3.7 .8-3.5 4.8 .9 .4-.3 .4-1 -.6-1.3 1.7-4.9 3.6 .7 2.7-1.3 2.2 1 0 1.3 -1.5 2.4 2.2 3.5 -3.3 1.4 2.8 3.9 1.5-.1 .3-.7 2.7-1.2 -.3-3.6 2.1-.4 2 .5 .3 .5 .8 2.5 -.5 .9 2.1 4 -1 3 0 .2 -5.7 2.2 -.5 .4 -.6-.2 -1.6 .1 -.9 3.5 1.8 .8 3 0 .2-1.8 4.4-1.6 .7-1.7 -.1-1 3.8-1.7 2.4 .2 .6 .5 1.4 .7 2.3-2.4 .2-.3 1.6-2 -.2-2.9 2-1.3 3.9 2.3 .9 2.7 .4 .2 .1 3.9 2.3 1.5 3.7-1.2 -1.4-3.6 2.9-1.6 1.3 .3 1.9-.3 2.3 1 -2.3 4.1 -1.5-.1 -2.7 .7 -.1 .6 3 3.6 -.6 .7 -3.1 1.1 -1.3-.9 -1.6 .3 -2.5-1 -.4 0 -1.2-3.5 -.5-.1 -2.7-2.3 -.7 .4 -1.6 3.6 .8 .7 .6 .9 0 3.3 -1.6 .8 -1.4 2.6 -.2 2 1.1 .2 3.5 2.9 .8-.2 1.7-1.6 2.4 .2 -.1 3.6 3.3 .9 2.1-2.6 -.9-1.8 .2-.5 2.9-3.5 .8 0 1.5 2.4 .2 1 -1.3 2.7 3 1.2 .3 2.5 -3.2 .3 -1.1 3 -1.3 1 -.5-.1 -1.2-2.2 -1.6-1.1 -.9 .3 -3.2 2.6 -.2 .7 .1 .8 -1.1 2.4 -3.5-.5 -3.6 4.6 -1.2-.4 -2.4 1.5 -3.8 0 -1-.5 -.3 .1 -2.7-.2 -3.6 3.4 .2 2.3 2.8 1.3 2.5-1.7 2.4 1.2 .3 3.3 -.5 .4 -1.5 .3 -1.3 0 -1.1 .8 -3.8-1.3 -1-2.7 -2.6 .7 .7 4.3 -3.3-.6 -2 2.6 3.3 1.5 .3 3 .2 .4 2.1 1.5 -1.9 3 3.2 3.2 .8 0 1.6-3.2 -1.5-2.5 4.5-2.3 .1-1.6 1.6-.6 1.1-.2 2.3 .4 .7-3 3.7-.6 0-.4 -2.1-3.6 1.5-1.5 1.2-.3 2.4 2 .5 .1 1.1 2.2 -1.4 2.3 -2.2 .6 -2.5 3.6 2.3 2.1 .9 2.2 0 .1 -4.2 .3 -1.8-2.4 -3 1.6 1.4 2 0 2.9 2.5 1.5 -.5 2.9 -.8 .6 -2.5-.5 -2.3-3.1 -3 .4 -.8 2.9 .2 1.3 2.3 1.5 .2 .6 4 1.6 0 1.5 1 1.6 .2 1.7 .2 .2 1.2 4.9 -4.5-.9 -.8 .8 .1 3 2.4 .5 1.4-.5 1.9-2 2.8 1.1 .6 1.1 2.5 .9 .3 1.2 -1.8 3.5 -1.3 1.1 -2.4-2.8 -.5 0 -2.8 1 -2.5 .6 -1.1-.7 -4.7 1.7 -1.9-2.6 -.4-.2 -1.9 .8 -1.9 3.5 .7 1.2 -1.5 2.7 1.2 2.5 -3.1 1 -.8 .4 -.4 2.3 .1 .2 2.4 1.1 2.2-.8 2 2.2 -.8 2.5 -2.4 .8 -.4 1.7 -1 2.1 .2 1 0 1.7 1.8 2.6 4.8 1.8 2.6-2.1 .2 .1 1.4 1.8 .5 1.5 4.6 0 .3-.2 1.4-.3 1.6-2.7 -3.3-3.3 -1.9 .2 -1.7-2.8 .1-.3 2.5-2.5 -1.2-4.1 -2.2-.9 -.2-.4 2.8-4 1.8-.1 1.8-3.3 .9-.3 .2-.5 2.9-2.4 2.6 1.1 .2 1.1 2.4 2.9 -.7 2.7 .6 .4 2.4 .3 .6 .6 .8 3.5 -.4 1.2 4.8 1.6 -.9 1.9 -1.8 1.7 -1 0 -2.3-1.6 -2.4 .6 -.6-.7 -1.3-2.5 -4.7 1.4 .3 1.7 -.6 1.9 .3 .5 -.5 4.2 4.3 .2 1.5 2.3 2.1-.8 1.3-1.4 .3-1.9 .9-.6 3.6 1.2 .8-1.5 2-.3 1.2 1.1 2.9 .1 1.1-1 3.3 1.6 1.3-.7 .3-.6 3-1.5 1.4 .2 2.8-2.6 1.1 .6 .8-.3 2.4-2 1.8-.4 .4 .1 3.3-3.1 -.8-1.7 1.7-1.6 .4-1.3 2.5-.9 1.9 1 1.6-.1 1-1.6 -.9-3 3.5-3.5 .8 .1 1.2-1.9 -1.3-4.5 .6-.6 2.9 0 .4-.4 .8-2.6 -1.1-2.2 -.1-.9 1.4-1.1 .1-4 3.6-1.2 .3-1.2 -3-4.1 0-.9 1-1.1 -.4-2.8 0-1.7 3-.4 1.9-2.3 -.1-.1 -3.5-.6 .7-3.5 -.3-.4 1.1-2.2 -.2-2.9 -3.6-2.9 0-.8 3.1-1.7 1.4-2.8 -1.3-2.1 .6-2 -.7-2.4 -2.9-1.6 1.8-3 -1.2-3.1 -1.9-.6 1-4.1 -2.6-.9 -.1-.8 2.8-3.3 -4.5-1.8 2.3-2.5 -2.1-3.1 2.7-2.4 -2-2.3 -2.1 .1 -2.6-3.7 0-.5 -.5-.8 1.4-3.5 -.1-1.1 -4.8-.1 1-4.4 .7-.8 0-.7 -1.2-1.4 -4.9-.3 -.2-1.5 -3.6-1.7 0-2.2 -1.6-1.3 -.8 .3 -2.6-.2 -.9-3.2 -.6-.5 -.3 .1 -2.9 2 -2.5-4.6 .1-.6 -1.8-1.2 -3.5 1.3 .4 2.4 1.3 1.3 .1 1.1 -2.1 .8 -2.3 .6 -1-1.1 .4-2.2 -1.2-2.7 -.1-1 -.3-.2 -4.7 1.6 -1-3.9 -.1 0 -1.4 .1 -3.4-1 -.2 .3 -.1 2.2 2.7 3 -4.2 2.4 -.2 0 -.8-.9 -.2-.5 -2.3-2.4 -.7-1.6 -4.2 .9 -.7 3.3 -2.6-.6 -.6-.3 -2 .3 -2.8-2.7 -2 1 -.8-.6zM345.3 835.4l3.7-3.6 1.5 .3 .6 3.5 -1.9 2.8 -3.7-2.6zM320 842.9l.7-2 2.7-1.7 1.8 3.2 -3.4 1.7zM306.9 827.9l1.1-.8 3.8 3.6 -.9 1.6 -2.8 .3 -2.5-1.4zM321.6 833.6l-3.8 .3 -.5-1.7 2.3-3.7 .4 0 1.9 .9 1 2.3zM344.7 909.4l.7-1.1 4.4 .5 -2.1 3.2 -2.9-1.1zM345.6 893.2l-1.9-1.1 -1.7 3.2 -3.6-1.9 2.5-2.8 2.4 .5 1.3-1.8 1-.6 1.3-4.5 3.6 2 .5 1.5 -1.5 2.8 .3 1.6 .3 .4 .2 1.3 -.7 3.1 -.3 .2 -3.5-2.7zM316.8 944.7l-1.4 3.1 -3.2-1 -.3-.8 3.1-2.4zM329.5 913.8l-.3 1.5 -.4 .6 -3.4-.6 -.1-3.1zM336.9 952l-1.8-3.8 1.3-1.3 2.9-.9 1.4 5.6 -3.3 .8zM330.5 919.9l.9 2.3 -2.1 3.4 -.7 .2 -.6-.1 -1.4-5.2 2.5-1.4zM341.3 936.1l.2 2.7 1.5 1.5 -3.8 3 -1-1.4 -1.3-.9 1.5-2.4 1.5-3.3zM357.7 901.3l-2.6-1.7 -.3-.6 4.2-1.7 1.3 .6 .2 .4 -.8 2.5zM353.3 916.3l-2.2-2.7 1.3-2.9 2.5-.6 0 3.9 3.5 .1 -.1 .5 -1 1.8zM358.1 888.2l-3.1-.1 .4-3.7 3.3 0zM350.2 881.2l.2-1.9 1-1.6 1.2 4.3zM350 947.9l1.1 2.5 -1 2.2 -3.6-.7 1.8-5.1 -1-.8 .5-1.1 2.9-2.6 3 2.6zM375.3 887.3l1.3 6.2 -.8 .9 -3.5-.9 -.5-.8 1.8-5.3zM289.5 855.7l4.9 2.5 .9-1.5 -.7-2.9 -3.6-1.2 -.8 .5zM310.1 858.8l-2.4 1.7 1.5 3.7 1.2 .1 1.5-.5 2.8 2.4 .1 .5 -.5 .9 -.2 3.2 -.2 .3 -4.4 1.7 .7 3 .5 .6 4.3-.2 1.8 1 2-1.3 .4-2.1 -.7-1.5 1-2.4 -.8-1.9 2.3-2.4 1.8-.6 -2.7-4.7 -3.2 2 -1.3-1.2 -.1-3.3 -.5-.6 -4.2 2zM265.5 864.8l1.6 .2 2.1-2.1 -.2-.9 -4.7-1zM285.5 861.7l-5.7 2.6 0 .6 .5 .6 5-.3 1.8-1.8zM253.2 865l-1.6 3.1 1.3 3.4 1.3-.3 .1-.2 0-5.9zM290.3 870.6l3.1-2.9 -.1-1.1 -4 .4 -1 2.9zM297.4 873.1l.4 .5 6.9-2.4 -.6-1.5 -2.5-1.4zM303.2 879.9l.3 2 -2.1 2.2 -2.6-3.3 -2.1 1.8 -4.1-1.8 -1.8 2 0 .5 3.5 2.7 1.9-.9 2.4 1.7 2.7-.5 .3-.6 3.4 0 1.3 1.3 3.7 0 -1.2-4.5 -.2-.2 -1.9 .3 -1.6-3.6zM281.9 899.4l-1.7-1.1 -1.1 6.2 -.8 1.1 .1 2 2.8 .6 1.2 3.8 3.8-1.2 .5-.9 1.1-.5 1.9-3.4 3.6 5.3 .3 .1 2.8-2.7 -.7-1.7 -1.6-1.6 -1.1-.4 -3.3 .9 -.9-1.1 -1.8-2.8 -3.7 2.2 -1.6-.3zM301.9 905.1l-1.7 2.8 2.7 2.5 -2.3 2.5 0 1.6 1.2 .8 1.8 0 2.6 4 .7-.4 .2-4.2 -.7-1.1 .1-.7 -2.5-2.8 1.1-2.1 -2.1-2.5zM257.8 923.6l.9 .1 2.3 3 2.7-.7 1.2-2.7 -.3-.3 -2.3-1.1 -1.2-4.5 -.6-.1 -3.3 2.8zM298.1 922.8l-2.4-.6 -2.1 4.3 .9 .7 3.9-.4 1.7 1.5 1.9-.6 1-3.2 -3.9-2.1zM271.2 927l1.8 2 1.7 .4 1.5 2.2 .9-.3 3.8-4.7 -.1-.2 -4-.2 -1-1.2 -2.2-.7 -1.7 1.6zM306.7 924.2l-1.5 5.9 .6 .8 1.5 1 1.7-.5 1.2-1 .6-4.2 -1.7-1.8 -.8 .1zM283.3 936.1l2.3-.6 -.3-4.5 -2.8-1.2 -1.6 2.6 .1 .4zM251.7 935.6l4.1 1.9 .5-5.4 -1.5-.5 -3 3.6zM311.8 879.9l-.2 1.3 2.4 2.3 1.1-4.4zM324.2 867.5l-.6 1.8 .4 .5 .8 4.4 2.8 .1 .6-.7 .2-.8 .7-1.1 -.3-2.3z"/>
<path fill="none" stroke="#fff" stroke-opacity=".7" stroke-width=".5" d="M358.4 844.3l.7 1.3 1.2 .7 -1.4 4.3 2 .6 2.6 2.3 1.1 .3 -1.9 4.6 -.7 .2 -2.8 3.4 -2.5-1.5 -1.1-2.2 -2.8 0 -2.4 4.7 .1 .3 .9 .5 3.5-1.2 1.8-2.1M358.4 844.3l2.2-3.1 1.4-.2 .7 3.5 -1 1.7 -1.4 .1M358.4 844.3l-2-1.1 -.2-2.4 1.3-1.4 3.1 1.8M333.9 855.9l-1.1-3.5 1.4-1.8 2.2 1.6 -2 3.8 -.4 0 -.1-.1 -5.1-.3 -.6-1 4.1-2.3 -2.8-2.2 1.4-2.5 2.8-1 .3 .2 .2 3.8M329.9 954.9l2.8 .9 .1 .1 -1.3 3.8 -2.4 .6 -.7-.8 -1.2-2.4 .1-.8 2.6-1.4 -.6-4.5 2.5 .2 .5 .7 .8 3.5 -.4 1M292.1 920.4l3.7 1.9 -2.1 4.2 -1.5 .1 -.4-.2 -.5-5.5 .8-.5 .6-2.5 .4-.7 -1-3 1.3-1.5 .2-1.3 -.2-.1 -3.7-5.4 0 0 -2 3.5 .5 .4 5.2 1.5M254.2 871l3.3-1.3 .5 2.7 -2.2 .9 0 1.1 2.7 1.5 1.4-1.8 .2-1.1 -2.1-.6M254.2 871l0 .2 1.6 2.1M254.2 871l.1-5.8M252.9 871.4l1.3-.2M380.2 870.3l-2.5-1.9 -1.6 1.1 -3.2-1.3 2.7-3.9 .3-.2 .3 0 1.9 1.2 -.4 3.1M356.1 873.6l-.2 .1 -4.2-2.9 .3-1.3 1.4-1.4 3.6 4.8 -.9 .7 2.3 4.4 3.7-1.9 -.2-.6 -4.2-2.8 1.2-3.6 1.3 .3 2.3 1.3 .4 1.1 -1 3.7M357 872.9l.7-.2M378.4 865.3l-.3 0M362.7 858.4l.9 .7 4.1 0 .1 0 1.9 .7 2.4-3.1 -.3-.9 -2.5-1.8 -3.3 .3 1.8 4.8M363.3 847.8l-2.4 3.4M363.3 847.8l2 3.6 -.6 2.3 -.1 .1M363.3 847.8l0-.1 -1.6-1.5M362 841l1.1-1.2 -2-2.8 .3-1.1 1-1.3M352 869.5l-3.8-1.7 0-1.1 -3.2-1.4 -.1-1 5.1-.5 -1.8 2.9M353.4 868.1l.3-.5 -2.3-3.8M345 865.3l-1.2 2.7 2.9 1.2 1.5-1.4M351.7 870.8l-2.6 3.2 -2.1-2.2 -.3-2.6M355.9 873.7l-.2 .1 -5.3 1.6 1.1 1.8 3.4 1 .8-4.4M349.1 874l0 .4 -.7 .6 -5.6 .1 1.1-3 -1.6-2.1 -2.6 3.8 1.2 2.1 .5 .2 1.4-1M332.5 865.5l2.5 .2 .1 .1 -.2 3.5 -.8 1 -1 .5 -.3 .5 1.3 4.2 3.1-2.6 -3.1-2.6M332.5 865.5l-1.6 1.6 2.2 3.7M332.5 865.5l-1.6-2.9 -4.3 1.8 -1.1-.1 .2-2 1.4-2.6 1.6-.8 2.6 1.7 -.4 2M334 856l-2 4.3 3.4 1 -.4 4.4M332 860.3l-.7 .3M329.5 850.1l-.6 .4 -1.6 3.5 .9 .6M332.3 852.3l.5 .1M296.7 894.6l-1.1-.3 -2.3 2.3 1.4 2.3 3.1-.9 -1.1-3.4 3-2.3 -2-2.6 -2.1 .1 -1.6-2.8 .3-1.1 1.9-.8 2.4 1.7 -.9 2.9M297.8 898l2.5 1.8 -2.4 1.7 -1.1 .4 -2.7-2 -1.4 1 .3 4.2 1 .3 2.8-3.5M293 905.1l-3.3 .8M276.6 865.8l-2.9-3.3 .2-.9 5.7 .9 .2 1.8 5.7-2.5 1.5 1.6 -1.7 1.8 -5 .2 -.5-.6 0-.5M276.6 865.8l3.2-1M276.6 865.8l-1.4 2.1 -.6 .1 -3-.7 .3-3.3 -2.7-1.2 -2.1 2.2 2 2.8 1 .3 1.5-.8M303.8 863l-3.9-.3 -.7-1.4 -4.5-1 -.5-.9 .2-1.2 .8-1.5 -.6-2.8 .2-.4 5.5 1.1 -.2 1.6 -4.9 .5M303.8 863l.4-.2 .9-1.8 -2.3-3.2 -1.9-.5 -1.7 4M303.8 863l-2.1 5.4 2.4 1.3 .6 1.5 -6.9 2.4 .2 .7 3.7 1.3 .4-.1 3.2-3.4 -.6-.9M315 876.1l-1.1-5 .3-.3 4.3 1.5 .6 1.5 -.3 2.1 3.5 2.1 .6 1 4.8-2 -.1-2.8 -2.8 0 -.8-4.4 4.3 2.9 -.1 .9 -.6 .6M315 876.1l1.8 1 2-1.2M315 876.1l-4.3 .2 -.5-.6 -.7-2.9 4.4-1.7M280.2 898.3l1.9-2.8 -2-3.1 -3.6 .9 -.7 1.6 1.7 3.1 2.7 .3 .1 .1 1.5 1.1 .8 .1 4.5 .3 -.1 2.1 1.8 2.9 .9 1M282.1 895.5l2.5-.7 -1.8-4 -1.7 0 -.5 .6 -.5 1M284.6 894.8l.7 .1 2.1-2.4 .2-.5 -1.9-2.7 -2.9 1.5M280.3 865.4l.8 3.6 4-1.5 .2-2.3M325.7 883.6l-1.1-.5 -1.1-2.5 5.4-2.1 .4 .4 -3.6 4.7 .6 .6 2 0 2.6 1.8 2.5 .2 .1-3.2 -.6-1.8 -4.6 3M331.5 959.7l2.3 1.6 1 0 1.9 2.9M329.1 960.3l-.7 2 -.6 .4 -3.9-2.4 4.5-.8M338 957.3l-.4 .2 -4.8-1.6M338 957.3l2.6 .3 .9 2.9 -2.2 2 -2.6-3 -1.9 1.8M338 957.3l-.6-4.9 3.3-.7 .8 5.2 -.9 .7M337.6 957.5l-.9 2M293.1 956.6l-4.2-1.3 -.6 1.3M293.1 956.6l0 3.6M293.1 956.6l.2-.1 -.2-6.9 -1.8 .5 -3 3.4 .6 1.8M314.9 938.6l1.1 .8 -.1 .7 4.5 5.2 .6-.3 .3-.4 -2.8-5.8 0 0 -2.5 .6M314.9 938.6l-4.7 1.7 -.1 .8 5 1.4 -.1 1.1 1.9 1.1 3.3 .7 -1.8 3.3 -1.9 0 -1.1-.9 1.5-3.1M314.9 938.6l-1.1-3.3 1.7-1.7 2.3 .5 .7 4.7M310.2 940.3l-1.9-2.6 5.2-2.4 .3 0M291.8 926.4l-3 .1 .8-4.9 1.6-.7 .1 0M292.7 917.9l-6.1-1.5 .1-.2 4-2.1 1.4 .1M247.1 927.6l-1.8 1.2M247.1 927.6l2-.1 .7 3.2 .3 .1 3.4-.9 -3.5-3.7 -.9 1.3M247.1 927.6l-.8-3.9 2-1.1 -.9-1.7 -3.5-.5M279.8 945.5l1.6-4.1 3.7 2.3 -1.8 2.5 -3.5-.6 0-.1 -3.7-1.4 .1-2.6 -1.8-1.4 3.2-3.2 .5 3.6 -1.9 1M288.3 953.5l-1.2-.4 -3.9 2.2M255.8 874.4l-2.9 3.2 -2-1.5M258.5 875.9l.2 2.2 2.1 1.2 .4-.1 1.3-2.6 -2.6-2.5M242.8 888.9l5-.3 .4-4.3M258.7 878.1l-4.5 1.4 -1.1-1.4 -.2-.5M260.8 879.3l-1.6 4.3 3.3 .6 .4 3.8 .1 0 0 1.6 2.4 2.1 .6 .1 2.1-3.1 3.5 1.8 1-.9 -.7-2.4 1.7-1.2 2.3 3 0 0 -.4 .6 -2.9 0M259.2 883.6l-1.2 .9 -3.8-4.7 -1.2 1.7 .5 1.7 3.1 2.5 1.2-.5 .2-.7M254.2 879.5l0 .3M258.4 886.3l4.5 1.7M258.4 886.3l-.6-1.1M258.4 886.3l.2 5.2 -1 .9 -.6 1.3 4.2 3.3 .7-.2 .7-3.1 -2.9-2.3 -1.1 .1M262.5 884.2l2.8-1.4 .4 .2 3.6-3.5 -4.1-.3 -1.1 1.2 1.2 2.4M277.5 898l-.6 .7 -.3 1 2.5 4.9 -.8 1 .1 1.9 2.8 .7 2.5-.8 0-1.2 -.4-1.9 -1.7-.4 -2.4 .6 -.1 .1M275.8 894.9l-4.1 .1 -.4 4.2 -.8 1.6 -1.1 .1 -1.4-2.7 1.2-3.9 1.5-.1 1 .8M248.2 891.2l2.5 3.9 -.3 .5 -4.2 .7M248.2 891.2l-3 1.5M248.2 891.2l.3-1.3 2-.2 2.6-1.7 .3 6 -.1 0 -2.8-4.3M380.3 871.3l-1.7 2 1.5 2.9 .9 .1 .8-.1M378.6 873.3l-2.7-.2 -.2 0 -.8 .2 -.6-.1 -3.5 1.4 -.2 2 -1.8 1.5 -3.4-2.4 2.9-4 2.5 2.9M316.8 877.1l-.2 1 1.2 3.9 5.1-2.5 0-.5M328.3 872.7l.7-1 3.8-.4M324.8 874.2l-.3 .1 -2.2 3.7M324 869.8l-.4-.5 0 0 -1.6 3.6 2.5 1.4M329 871.7l-.3-2.3 -4.4-1.8 -.7 1.7M330.9 867.1l-.8 .2 -1.4 2.1M327.7 877l1.2 1.5M328.2 873.6l5.6 2.6 .3-.7M329.3 878.9l3.6 .5 1.1-2.4 4.1 .3 .2 2.2 -2 1.3 -3.3-.9 -.1-.5M362.9 871.8l5.3-.7 .1-.3 -1.9-3.4 -1.1-.2 -1-.7 -2.1-2 2.3-2.3 .7 0 2.7 1.5 .2 1.4 -1.7 2.3M362.5 870.7l2.8-3.5M368.2 871.1l.1 .6M368.3 870.8l3.3-1.2 2.7 3.6M371.6 869.6l1-1.4 -2.1-2.9 -2.4-.2M375.9 873.1l.2-3.6M350 863.8l.5-.5M344.9 864.3l-1.6-2.5 -.8 .1 -1.7-1.7 -1-2.6 3.1-1.2 1.4 4.6 -1 .8M346.7 854.5l-.8 .8 .1 4.9 1.1 .2 2.8-3.2 -3.2-2.7 0-.1 -1.9-3.4 .1-.1 5.5-.2 .1 1.3 -3.8 2.4M362 858.6l-3.4-2.5 -2.2 .9 -.5-1.3 2.2-4.6 1.1 3.9 -.6 1.1M359.2 862l.8 2.2 2.2 .3M347.1 860.4l3.3 2.6M349.9 857.2l1.7 0 1.2 1.1M351.6 857.2l.3-4 2.2-.3 1.8 2.8M360 864.2l-.3 .4 -4.2-.4 -1.2 3.2 3.9 .1 1.5-2.9M360.2 869.4l4.1-2.9M358.9 869.1l-.7-1.6M369.7 859.9l0-.1M369.7 859.9l-1.8 3.8M369.7 859.9l2.1 1.8 -.7 2.9 -.6 .7M357.5 839.4l.2-1.4 -1.5-2.1 -2.1 .8 -.7 3.3 2.8 .8M338.1 872.7l-.9 .2M338.1 872.7l0-2.4 -3.2-1M338.1 872.7l1.6 1.1M333.8 876.2l.2 .8M340.2 867.7l-2.1 2.6M340.2 867.7l-.8-1.8 -4.3-.1M340.2 867.7l1.8 .9 .3 1.4M353.7 867.6l.6-.2M342 868.6l1.8-.6M347 871.8l-3.1 .3M348.4 875l-1.9 3.7 3.8 .6 1.1-1.7 .1-.4M349.1 874.4l1.3 1M346.5 878.7l-.9 1.2 -4.2-3.8 -1 5.5 .4 1.9 .3 .2 4.5-1.2 0-2.6M350.3 879.3l-.2 2 2.6 .8 1 .5 0 .3 -3.2 3.2 -3.7-2 -.5-1.1 3.8-1.7M351.4 877.6l1.3 4.5M312.6 839.4l-.3-.5 -2-.5 -2.1 .4 -1.6-.4 -.1-1.7 1.2-1.9 2.3 .9 .3 2.7M312.6 839.4l.9 2.6 -.5 .9 -2 1.4 -2.5-1.9 -.3-3.6M312.6 839.4l5.4-1.3 -1.4 4.2 -3.1-.3M312.3 838.9l1.6-2.9 -2.9-3.3 -.1-.4 1-1.6 .7-.3 2.4 .6 2.3 1.2 .4 1.7 -.1 .5 -3.7 1.6M309.7 891.4l1 2.6 -1.9 3.1 -.9-.7 -3.4-.7 .1-4 2.5 .3 .8 4.4M309.7 891.4l-2.6 .6M309.7 891.4l1.2-1.7 2.8 1.2 2 3.7 -1.2 .8 -3.8-1.4M315.7 894.6l1.2-.1 -.2 6.1 -1.6 .6 -.5-.4 -1.4-2.2 1.3-3.2M293.6 911.4l2.8-2.7 -.7-1.7 -1.7-1.6M295.6 894.3l-1.9-2.2 1.9-2.3M292.2 891.9l1.5 .2M292.2 891.9l-1.3-.9 .3-2.1 2.8-1.9M292.2 891.9l-1.1 4 -.7 .3 -2.5 3.1 3.7 .9 1-3.7 -1.5-.6M300.3 899.8l.1 0 1.6-1.4 -2.1-6 -.2-.1M292.7 900.9l-1.1-.7M293.3 896.6l-.7-.1M294.7 898.9l-.6 1M268.9 930.6l-1.5 .6 .6 2.4 2.1 1.2 1.6-.6 -.5-2 -2.3-1.6 1.2-3.5 -1.2-.6 -1.4-2.5 2.4-1.6 2.1 3.6 -.7 1 -1.2 .1M267.4 931.2l-2.5-.7 .2-1.6 -1.4-2.9 -2.7 .7 -.3 .9 3.4 3.5 .8-.6M271.2 932.2l1.9-3.2 1.6 .4 1.5 2.1 -.9 2.9 -1.7 .7 -1.9-.9M268 933.6l-3.1 1.8 0 2.4 2.7 .7 2.5-3.7M260.1 873l2-1.9 -.3-1.7 1.2-1.9 4 1.5 -1.1 3.1 -1.3 .7 -2.5-1.7M257.5 869.7l1-1.3 3.3 1M267.5 858.1l1.6 3.5 -.1 .4 -4.7-1 -.6-1 -3 2.9 .6 1.9 1.8 2 2.4-2.1 -1.2-3.7M267.5 858.1l-1.7 .2 1-5.2 -2.7 .6M267.5 858.1l2.6-1.6 .2-1.9 -3-1.7 -.5 .2M302.8 857.8l2-1.8 .8-3.3 -.4-.2 -3.7 0 -1 1 -3.1-1.5 -1.6 .1 -.9-3 -.9-.3 -2.6 1 -.4 2.8 3.6 1.3M299.9 862.7l-1 2.1 -3 .7 -.8-.2 -.6-4.2 .2-.8M294.3 885.9l-3.4-2.6 -2.1 2.8 2.4 2.8M271.6 890.5l-.9 3.7M272 882.4l2.3 .8 .9 0 2.9 3.5 -2.2 2.3M272 882.4l-1.8 1.7 0 1.8 -2.2 2.1 -2.2-1.6 0-3.3 4.4 1M272 882.4l-.1-.3 -1.8-3.1 .3-2.3 -4.2-.6 -1.4-1.3 -2.3 1.8M271.9 882.1l2.9-3.4 2.4 2.2 1.8-.8 -1.1-3.8 -3.6 .6 .5 1.8M276.5 893.3l-1-3.7M280.6 891.4l-4.7-2.4M278.1 886.7l1.1-.1 .9 .6 1 3.6M275.2 883.2l2-2.3M274.3 883.2l-.7 2.8M284.9 860.5l.6 1.3M284.9 860.5l2.9-3.6 .2 0 2 3.2 -1.8 3 -.6 .3 1.7 3.6 3.9-.4 .3-.3 -2.5-2.7 -2.8-.5M284.9 860.5l-.4-.2 -.9-.4 -3.5-.4 -.5 3M287 863.4l.6 0M281.1 869l0 .4 2.8 1.5 -1 4.5 -2.9-1.4 -1.5 1 -3.3-2.2 2.2-2.6 2.5 .5 .1 3.3M285.1 867.5l2.3 2.9 1-.5 .9-2.9M313 842.9l2.1 4 2.3-1.3 .3-.6 .3-1.7 -1.4-1M328.4 962.3l3 2.8M344 964.1l-.2-2.1 -2.3-1.5M333.8 961.3l-1.4 3.1M333.1 954.8l3.9-2.6 .4 .2M289.5 931.5l-.8 4.1 3 .5 3.3-.9 -.7-2.5 1.3-2.4 3.8-.6 .7-1.4 -1.7-1.6 -3.9 .4 1.1 3.2M289.5 931.5l2.2-.5 .5-4.4M289.5 931.5l-1.9-1.7 .4-2.7 -6.1 1.2 -1.1-1.7 0-.1 0-.1 3.6-1 3.2 .7 .5 .6 -.1 .4M295 935.2l.1 .1 2-.5 1.7-1.3 .9-1.6 2.3 .6 .1 2.8 -3.3-1.8M295.1 935.3l.7 3.3 1.5 1.2 .9 1.6 -2.9 1.8 -1.2-.5 -.3-2.4 2-1.7M291.7 931l2.6 1.7M295.8 922.3l.1-.1 1.3-5.2 .5-.3 2.6 3.4 -1.2 2.4 -1 .4 -2.2-.7M293.7 926.5l.8 .6M294 948.1l-2.3-3.2 -.2-.1 -3.5 2.8 3.3 2.5M294 948.1l-.4 1.1 1.7 1.4 5 1.3 0 .1 -1.6 2.7 -2.8 .2 -.6-4.3M294 948.1l1.2-.9 3.4-1 2.1 3.5 -.4 2.2M327.3 956.3l-2-2.9 -2 .2 -.9-3.3 1.3-2.2 -2.7-3.1M327.2 957.1l-4.7 1.4 .3 1.6 1.1 .2M314.8 961l.1-.3 2.4-2.5 -1.1-4.1 -2.2-.8 -1.9 3.7 2.8 3.7M314.8 961l1.7 2.8 1.9-.1 3.2 3.3M314.8 961l-3.3 1.1 -2.2-1.1 -2.4 1.9 -4.4-.2M320.2 945.4l.2-.1M318.4 948.7l.7 1.7 3.3-.1M315.4 947.8l-3.2-.9 -.4-1 3.2-2.3M316.5 948.7l-2.7 4.1 -1.9-2.9 -3.5 .9 .9 3.2 4.5-1 0-.2M315.1 942.5l.8-2.4M310.1 941.1l-.9 3.5 2.6 1.3M280.3 898.4l-1.1 6.1M287.1 899.9l.3-.4 .5-.2M286.6 916.4l0 .1 4.6 4.4M308.3 937.7l-.4-.2 -.6-5.6 1.7-.5 4.5 3.9M307.9 937.5l-1.8 .8 -3.6-1.9 0-.5 4.6-4.1 .2 .1M246.8 932.2l3-1.5M270.1 944l3.4-4.3 -.5-1.1 -5.2 .1 -.2-.2M270.1 944l-1-.7 -1.3-4.6M270.1 944l.7 1.5 -3.2 3.9M276.1 944.1l-1.7 1.3 -1.7 .7 -1.9-.6M269.1 943.3l-1.4 .1 -3.5-1.7 -1.2 3.4M285.2 948.9l-1.2-1.1 -4.2 1.9 .6 2.1M285.2 948.9l-.1 1.7 -4.4 1.4M285.2 948.9l2.3-1.5 -.5-4.1 -1.9 .4M261.2 879.2l2.9 1.2M264.8 874.8l-.2-2M253.1 878.1l-3.7 2.5 -.3-3.9M248.5 889.9l-.7-1.3M248.2 884.2l1.4 .1 4 2.9 0 .2 -.5 .6M253.6 887.4l4 5M263 889.6l-3.3 1.8M263 888l2.8-1.6M268.1 888.7l-.1-.7M254.7 907.6l1.1-1.5 -.7-2.1 -1.2-1.2 -2.6 .1 -2.3-1.6 1.8-3.1 3.5 1.5 -.4 3.1M254.7 907.6l-4.1-2.3 .7-2.4M254.7 907.6l-.5 1 .8 1.9 3.3 1.1 .5-1.3 2.5-2.4 -2.2-2 -2.5 .2 2.2 4.2M263.8 902.7l.1 1.9 -2.3 3.3 -.3 0M263.8 902.7l-2.9-.3 -1.8 3.5M263.8 902.7l1.4-1 2.4 .3 .5 3 -2 2 -2.2-2.4M250.4 895.6l.4 2.6M250.7 895.1l2.6-1.1M248.5 901.4l.5-.1M247.1 903.4l1.3 3.8 .4 0 2.3 1.9 -1.4 3.5 -3.7-1.1M250.6 905.3l-1.8 1.9M381 876.3l.4 5 -4-2.7 2.7-2.4M376.3 885.4l3.3-1.6 -3-4.7 -.8 .2 -.7 2.2 -4.5 .9 -.4-.7 3.8-3.5 1.8 1.1M376.3 885.4l-1.2-3.9M376.3 885.4l-1 1.8 -1.7 .1 -.7-.2 -2.3-3.8 0-.9M362.1 876.1l.4 .2 .2 1.5 3.5 3.5 2.5-1 1.5 1.4M362.5 876.3l2.9-.6M358.4 878l-1.4 1.2 -1.3 0 -.8-1M368.7 880.3l.1-2.2M373.9 878.1l.1 .1M373.9 878.1l-3.3-1.5M373.9 878.1l1-4.8M375.7 873.1l1.5 5.6 -.6 .4M339.1 883.9l.5-.2 1.2-.2M339.1 883.9l-5.6-.9M339.1 883.9l-3.8 3.9 4.9 .9 1-3.8 -.1-1.2M339.6 883.7l-3.3-2.9M318.6 890.5l1-1.5 -1.4-4.3 4-.1 0 3.3 -.5 .8 -2.1 .3M318.6 890.5l.3 3.3 3.5-.5 1.5-1.5 -2.2-3.1M318.6 890.5l-2.4-1.3 -.2-1 -5.2-.7 -.1-.1 3.6-3.4 2.7 .3 -1 3.9M324.6 883.1l-2.4 1.5M323.5 880.6l-.6-1.1M371.8 861.7l1.9 .3 1.2-4.1 -.1-.2 -2.7-1M373.7 862l2.2 2.1M344.9 850.9l2.3-4.1 1.7-.4 1.9 .9 1.5-.4 .2-.1 1-1.8 -.9-2.7 -4 .6 .3 3.5M344.8 851l-1.5-.2 -2.7 .7 0 .6 -2.1 4.5 -.3 .1 -1.7-4.5 3.5-1.2 .6 .5M345.9 855.3l-2.4 .4 -2.9-3.6M346 860.2l-1.7 .8M343.5 855.7l-.6 .7M355.6 858.3l.8-1.3M354.9 862.6l.6 1.6M363.5 853.5l-4.3 1.5M358.1 851.1l0-.1 .8-.4M359.1 845.6l-3.3 2.1 2 3.2 .3 .1M354.1 852.9l.9-1.1 2.8-.9M350.4 850.7l.4-3.4M351.9 853.2l-1.4-1.2M369.3 854l.9-3.3 -3.2-.8 .7-3.7 .1-.1 1.9 .2 1.9 3.3 -1.4 1.1M365.3 851.4l1.7-1.5M366 854.3l-1.3-.6M371.8 855.8l2.9-4.3M366.6 843.7l1.2 2.4M366.6 843.7l-3.9 .8M366.6 843.7l.2-1.5 4.8-1.2M363.3 847.7l4.4-1.5M363.6 859.1l.9 3.1M367.7 859.1l-2.5 3.1M347.2 846.8l-2.4-1 -.3-4.1 -2.2-.6 -.8 2.3 .1 2.4 1.3 .3 1.9-.3M350.6 832.1l1.7-1 3.2 1.8 .9 2.3 -.2 .7M350.6 832.1l.5 3.5 3 1.1M350.6 832.1l-1.6-.3 -3.5 3.3 -.3 .3 -2.2-.5 -2.9 2.3 .5 2.3 1.4 1.1 2.9-2.7 .5-2.1 -.2-.4M356.4 843.2l-2.9 1.8M335.4 861.3l.6-.4 1.2 .4 2.3 4.1 -.1 .5M339.5 865.4l3-3.5M341.4 876.1l0 0M340.9 875.9l-2.8 1.4M316.1 826.5l2.7 .6 .8-3.3M316.1 826.5l-.5-.3 .3-2.5M316.1 826.5l-1.1 4.5M318.8 827.1l.8 1.3 -2.3 3.8M311 844.3l-1 2.4 -2.1 .3 -.9-.3 -2.5 1.8 .7 4M307 846.7l-1.5-2.3 .3-.7 2.7-1.3M295.8 852.1l-1 1.4M303.9 832l0 1.3 2.6 3.4M303.9 832l1.6-.8 2.6 1.5 -.4 2.1M303.9 832l-2.3-1.1 -.1-.5 2.5-3.7 -2.1-2.5M303.9 833.3l-1.5 2.4 -2.3 .4 -.8 1.8 1.6 2.7 .3 0 3.4-1.4 -2.2-3.5M287.3 835.3l1.3 2.8 -.8 3.5 .4 1.2 -.1 0 -4.6-.5 -.9-1.8 1.6-2.5 3.6 3.6M287.3 835.3l-3.1 .4 0 2.3M287.3 835.3l.8-.5 .9-2.9 -.2-.4 -2.8-1.7M313.2 898.6l-3.5 .1 -.6-.4 -.3-1.2M293.4 912.7l3.6 2 -.1-5.6 -.2-.2 -.3-.2M293.1 917.2l4.1-.2M310.5 910.9l1.5-3.2 3.5-.2 1.4-1.3 -1.8-3.3 -4.6 2.3 1.5 2.5M310.5 910.9l1.7 2 2.9-.4 .7-.9 -.3-4.1M310.5 910.9l-.8-.1 -3.3 2.2 -.1 .6 .8 1.1 -.2 4.2 2 .1 2.7-1.9 -.2-1.3 -4.3-1.1M312.2 912.9l-.8 2.9M313.9 918.5l-2.3-1.4M313.9 918.5l3.5-2.8 -2.3-3.2M313.9 918.5l.2 .7 -.7 2.4 -3.8-.6 -.7-2M304.5 895.7l-2 2.6 -.5 .1M304.6 891.7l-.2-.2 -1.7-.4 -2.8 1.3M302.5 898.3l3.3 1.5 .3 2.9 -5-.7 -.7-2.2M301.1 902l.1 1.9 -3.2 1.2 -.1-3.6M287.4 899.5l-2.1-4.6M287.4 892.5l3 3.7M273.1 929l-1.8-2M253.5 929.9l1.8-4.5 3.6 3.7 1.8-1.5M253.5 929.9l1.4 1.7 1.4 .5 -.5 5.4M253.5 929.9l0 0M273.6 935.1l-.6 3.5M273.5 939.7l.9 .4M257.5 866.8l1 1.6M257.5 866.8l3.8-2M257.5 866.8l-2.2-2M267.1 865l-1.6-.3M271.9 864l1.8-1.5M269.2 862.8l-.2-.8M273.9 861.6l0-.8 -1.8-1.3 -3 2.1M291.4 849.8l-1.4-1.3 .7-2.6 2.4 .2 1.2-1.5 -3.7-2.5 -1.6 .8 1.7 3M265.8 858.3l-2.1 .6 -.8-.9M263.7 858.9l0 1.1M291 852.6l-.8 .5 -.6 2.6 4.8 2.5M305.6 852.7l1.6-.1 .6 .2 1.9 2.3 -.2 1.7 -3 .1 -1.7-.9M322 872.9l-2.9 .9M318.5 872.3l1-2.4 4.1-.6M300.9 857.3l-.8-1.1M296.2 885.1l.5-2.5 -4.1-1.8 .2-1.7 -1.1-2 -1-.9 -.4 0 -.4 .3 -1.6 4.8 2.6 1.6 1.7-2.1M296.7 882.6l2.1-1.8 2.6 3.4 .2 1.5 -.3 .5 -2.7 .6M302.1 875.5l3.6 2.5 0 0 4.5-2.3M287.6 892l3.3-1M285.7 889.3l0-1.6 -1.9-1.2 -3.7 .7M285.7 887.7l1.7-1.3 1.4-.3M270.1 868.1l.3 2.4 -.8 1.9 1.4 3.6 1.1-.2 2.3-2.9 -.7-1.4 -3.3-1M269.1 867.8l-2.1 1.2M270.1 879l-.8 .5M270.4 876.7l.6-.7M266.2 876.1l-1 3.1M274.6 868l-.9 3.5M275.2 867.9l2.2 2.3M272.1 875.8l2.2 1.1M269.6 872.4l-3.7-.3M274.4 872.9l.8-.1M281.1 869.4l-1.2 1.3M283.9 870.9l3.3-.1 -.1 2.2 -3.2 2.6 -.6 .1 -.7 4.4 1.4 1.1 -.5 1.8 -3.8 2.2 .2-4.7 2.7-.4M283.3 875.7l-.4-.3M271.9 887.2l-1.7-1.3M283.8 886.5l-.3-3.5M279.2 886.6l.5-1.4M290 860.1l4.2-.7M294.5 861.1l-3.5 2.5M318.9 893.8l-.3 .4 2.2 3.7 -.6 3 -2.3-.4 .5-6.3 .2 0M322.4 893.3l2.2 3.6 3-3.4 -2.4-2.1 -1.3 .4M326.3 884.2l.1 2.2 -.8 1.7 -3.4-.2M314.6 900.8l-4.5 2 -.5 1.8 -1.2 .1 -1.8-1.5 3.1-3.9 .4 3.5M315.1 901.2l0 1.7M327.8 962.7l-1.2 1.4 -.3 2.7M326.6 964.1l-4-1.6 -.5 4.1M339.3 962.5l-.5 1.3M348.9 964.3l-1.1-4.2 2.5-.8 1-1.1 -1.3-3.5 -4.3 2.1 1 2.9 1.1 .4M351.9 962.8l-1.6-3.5M343.8 962l2.9-2.3M317.8 934.1l1.4-.5 2.1 4.1 -2.8 1.1M323.7 948.1l1.1 .1 2.9 2 -2.4 3.2M327.7 950.2l1-.2 .6 .4M324.8 948.2l2.2-3.8 -.2-1.1 -2.6-1.1 -2.9 2.4M354.2 958.5l-2.9-.3M354.2 958.5l1.4 .9 .4 1M354.2 958.5l0-3.9 -3.9-1 -.3 1.1M355.6 959.4l2.6-3.9 2.2 3.2M302.8 953.1l-2.5-1.1M302.8 953.1l.5 4 -4.1-.6 -.5-1.8M302.8 953.1l2.1-.8 1.6-2.4 -.2-.9 2.6-4.3 -4-1.7 -.8-1.1 2-3.6M281.4 941.4l-.1-.5 -3.2-.4M297.1 934.8l3.6 2.3 .9 .1 .9-.8M302.5 935.9l-.4-.6M303 924.5l-1 3.2 -1.9 .6M303 924.5l-3.9-2M303 924.5l1.9-1.3 0-2.6 -2.4-1.1 -2.2 .6M302 927.7l3.2 2.4 1.6-5.8 1.4 .2 -1.3 7.1 -1.1-.7 -.6-.8M319.1 950.4l-.5 2.2 -1.3 .9 4.5 3.7 .6-2.9 -3.8-1.7M323.3 953.6l-.9 .7M311.5 962.1l-.5 3 -3.1 0 -1.1 2.7M317.3 958.2l.2 0 4.2-.6 .8 .9M312.1 957l-2.1 .3 -.9-3.1 -2.2 .4 -2-2.3M316.2 954.1l1.1-.6M314 953.3l-.2-.3M288.8 904.9l-5.1 1.3M287 902l-3.4 2 -1-4.4M288.2 909.8l2.5 4.3M287.7 909.4l-1 .4 -.6 1 .6 5.4M277.1 909.5l1.3-2M277.1 909.5l-3 .7 -2-3.9 .8-2 2.1-.3 .9-3.4 -4.9 .7 1.9 3M277.1 909.5l2.7 4 -2.2 2.1 1 2.5 2.8-.7 -.2-3.4 -.3-.4 -1.1-.1M286.6 916.5l-.2 0 -1.9 3.6 1.1 1.2 .6 .4 3.4-.1M285.6 921.3l-1.2 4.1M284.5 920.1l-.6 .1 -1.8 1.2 -1.3 1.8 -3.3-1.4 -1.8 3.3 1.1 1.1 4 .3M286.4 916.5l-5.2-2.5M313.1 930.1l2.2 .5 .2 3M313.1 930.1l-3 .2 -1.1 1.1M313.1 930.1l.3-4.3 -2.7 .4 -.6 4.1M315.3 930.6l.8-.7 4.6 .9 .3 .7 -1.8 2.1M274.4 945.4l3.6 3.5 -3.5 1.5M272.7 946.1l1.5 4.2M264.2 941.7l-.7-3 1.4-.9M267.7 943.4l-3.5 2M279.8 945.6l-.6 3.2 .6 .9M283.3 946.2l.7 1.6M287.1 953.1l-2-2.5M247.9 882.1l1.5-1.5M253.4 894l2.3 .4 -.1 4.2 -1.3 1.1M265.8 883.1l-.1-.1M267.2 893.7l-2.5 3.4 -.6 .3 -2.2-.6M267.2 893.7l-1.2-1.9M267.2 893.7l2 .6M265.4 891.7l-2.8 2M261.6 907.9l2.1 2 -1.8 2.3 -3.3 0 -.3-.6M266.1 907l-.1 1.7 3.2-.4 1.1 2.4 -.4 .2 -4.4-.4 -.4-.5 .9-1.3M268.1 905l2.3 1.5 1.7-.2M255.6 898.6l1.4 .7 2.9 .1 .6 2.4 -3.3 .5 -.2-3M255.7 894.4l1.3-.7M355.7 879.2l-2 3.4M357 879.2l2.1 2.7 3.4-3.5 -.1 4.5 -3 .4 -.3-1.4M362.7 877.8l-.2 .6M366.2 881.3l-1.4 2.8 -2.4-1.2M370.6 883.3l-4.2 2.4 -1.5-1.4 -.1-.2M381.4 881.3l1.3 1.8 .4-.2M377.4 878.6l-.2 .1M379.6 883.8l2.7-.4 .4-.3M335.3 887.8l-.3 .2 -.8-.5 -.8-1.3M316.2 889.2l-2.5 1.7M310.9 889.7l-.1-2.2M318.2 884.7l-.9-.5 .5-2.2M317.3 884.2l-.3 .1M316.6 878.1l-1.6 1 -1.1 4.3 -2.3-2.2 .2-1.3 3.2-.8M357.7 838l3.4-1M372.6 868.2l.3 0M371.1 864.6l4.5-.3M343.3 850.8l-.4-4.7M338.7 847.4l1.3 3.6M338.7 847.4l-1.9-.9 -2.8 .3M338.7 847.4l2.9-1.6M330.9 847.6l-3.9-1.8 -.2-2.9 2-1.3 3.9 2.2 1 2.8M328.8 841.6l.2-1.6 2.8-1 2.3 .4 1.3-2.2 2.8 4.1 -.4 .4 -3.4-.9 -.3-1.4M337.2 861.3l3.6-1.1M336 860.9l.9-3.9 -2.5-1M336.4 852.2l.1 0M336.9 857l1.3-.3M338.5 856.6l1.3 1M355 851.8l-2.7-4.9M355.8 847.7l-3.3-.9M374.9 857.9l2.8 2 1-.2M374.8 857.7l2.4-2.6M377.7 859.9l-1.5 4.2M332.7 843.8l1.7-3M337.8 843.1l-1 3.4M337.8 843.1l0-1.4M337.8 843.1l3.7 .3M351.1 835.6l-1.9 2.9 .1 .7 3.3 1.1 .8-.3M352.6 840.3l0 2M348 841.2l1.3-2M348 841.2l.6 1.7M348 841.2l-1.9 0 -1.6 .5M349.2 838.5l-3.8-2.7M352.3 831.1l.5-1.5M345.5 835.1l-.7-4.9 2.1-.8 2.1 2.4M336.5 829.3l-1.3-.7 -3 2.1 -.1 .6 -.7 2.5 4.1-.6 -3.4-1.9M336.5 829.3l.6 .7 .2 2.7 -.2 .7 -1.6-.2M336.5 829.3l4.1-4.6 1.3 2.7 -.4 2.2 -4.4 .4M338.3 879.5l2.1 2.1M333 879.9l-.1 1.3M345.6 882.5l.7 .5M308.8 824.7l-.8 2.4 -1.2 .7 -2.8-1.1M294 848.8l-.9-2.7M294.9 849.1l3.9-2.9 .8 .5 3.9-1.9 .7 3.6 -3.6-.4 -.9-.9 -.1-.4M298.8 846.2l-.8-2.1 -.7-.4 -3.5-5 .3-.9 .1-.1 4.7-4.1 0-1.4 2.7-1.3M300.5 853.5l-.2 1.1M297.4 852l2.3-4.9M298 844.1l2.9-3.5M294.1 837.8l-.6-1.3 -.9-.5 -4.5-1.2M288.6 838.1l4.8 .9 .4-.3M310 835.7l1-3M306.6 838.4l-1.8 .9 1 4.4M321.5 902.4l-1.2 2.2 -3 1.6 -.4 0M321.5 902.4l-1.3-1.5M321.5 902.4l1.7-.1 2.4-3.5 -1-1.6 -3.8 .7M301.2 903.9l.8 1.3 -1.8 2.7 2.8 2.5 .9-.3 1.2-2 -2.1-2.6 -1-.3M298 905.1l-2.3 1.9M296.7 908.9l3.5-1M296.9 909.1l3.8 3.8 -.1 1.6 -2.6 1.5 -1-1.3M298 916l-.3 .7M298.1 922.9l.3 3.8M309.7 910.8l-3.1-3.1 1.8-3M314.1 919.2l3.9 1.6 0 1.5 -3.7 1.1 -.9-1.4 0-.4M307.1 931.8l-.2-.2M304.9 923.2l1.9 1.1M309.6 921l-.4 3.3 4.2-2.3M305.8 899.8l3.3-1.5M309.7 898.7l0 .6M306.1 902.7l.3 .4 .2 .1M264.1 931.1l-.4 .6 -2.9 .6 .3 2.5 3.7 .6 -1.1-3.7M258.9 929.1l-.4 2.6 .2 .1 2.1 .5M255.3 925.4l0 0 2.6-1.9 .9 .2 2.2 3M258.5 931.7l-2.2 .4M263.7 909.9l1.4 .1M274.1 910.2l-.6 .8 -3.2-.3M273.5 911l-.1 1.2 -2.4 3.9 .5 1 4.8-1.9 -2.9-3M270.4 906.5l-1.2 1.8M250.1 930.8l1.7 4.4 3.1-3.6M250 926.2l.7-2.5 -1.7-.9 1.6-4.8 -2.9-1.1 2.4-3.7 -.4-.6M277.5 935.8l-2.2-1.4M277.5 935.8l.2 .3 -.1 .8M277.5 935.8l3.5-3 2.4 3.2 2.1-.5 -.3-4.5 -2.7-1.1 -1.5 2.5 0 .4M277.7 936.1l4.4 1.4 -.1 2 -.7 1.4M282.1 937.5l1.3-1.5M282 939.5l4.8 .9 .5 2.6 .3 0 3.8-2.5 -.1-.2 -3.7-2.2 -.8 2.3M260.7 862.9l-3.9-.4M263.1 866.8l-.1 .7M284.2 835.7l-1.3-1.1M283.5 842.3l-1.5 3.2 -1.4-.3 -2-3.2 1.7-1.3 2.3-.2M288.1 842.8l-3.1 3.9 1.3 2.5 -.2 .9 -4.5-.3 1.1-3.7 2.3 .6M288.2 842.8l.2 0 -.2 5.8 1.8-.1M267.3 852.9l-.3-3.9M309.7 855.1l4.4-1.7 .6-1.6 -.1-1 -.5-.7 -5.8 2.3 2.6-4.5 3.1 2.1 .1 .1M306.5 856.9l-1.3 4 2.5-.4 2.3-1.6 -.5-2.1M310 858.9l.8 .3 1.2 2 -.1 2.6 -1.5 .5 -1.2-.1 -1.5-3.7M317.7 845l3.2 2.7 0 1.5 -2.4-.1 -1.1-3.5M328.9 850.5l-3.7-2.4 .1-.4 1.7-1.9M314.2 870.8l.1-3.2 -4.2 .2 -.7 .4 -.2 4.4 .3 .2M295.1 865.3l-1.6 1M293.3 867.6l-.1-1M293.3 867.6l-3 2.9 -1.9-.6M293.3 867.6l1.8 4.1 -2.3 .8 -2.5-2M295.1 871.7l.7 .2 1.3-3.5 3.7-.6 .8 .6 -4.1 4.7 -1.7-1.2M283.9 875.6l3.4 1.8 -1.7 3.8 -.1 0 1.9 5.2M287.3 877.4l2.6-.9M290.9 883.3l0-.4M285.5 881.2l-1.5 0M285.6 881.2l2.7 .1M304.4 891.5l1.9-4.5 3.7-.1 .7 .5M302.7 891.1l-1.4-4.9M301.6 885.7l3.4-.1 1.3 1.4M310.8 877.6l-.1-1.3M310.8 877.6l1 2.3M310.8 877.6l-2.7 2.2 .5 2.6 .2 .1 2.8-1.3M305.7 878l-.1 .3 2.5 1.5M305.7 878l.1-5.7 3.4 .3M278.5 875l-.6 1.3M279 880.1l.9 .4M316.9 894.5l1.5-.3M316.7 900.6l1.2-.1M330.9 886l-1.8 2.5 -2.7-2.1M325.6 888.1l-.2 2.7 -.2 .6M329.1 888.5l.4 .9 -4.1 1.4M310.5 905.2l-.9-.6M313.3 968.6l3.4-2.3 2 3.5M311.9 966.8l4.4-2.2 .4 1.7M322.8 960.1l-.5 1.9 -1.9 .3 -2.9-4.1M321.7 957.6l.1-.4M320.4 962.3l-2 1.4M322.6 962.5l-.3-.5M316.3 964.6l.2-.8M364.2 953.4l.8 .3M364.2 953.4l-3.7-.3 1.7 5.2M364.2 953.4l.3-4.6 .3-.7 .6 0 1.8 2.7M341.5 956.9l3.2-.8 1 .7M344.7 956.1l.1-3.2 1-.9 .6-.1 3.7 .8 1-2.3 2.9-.2 1.2 3.7 -1 .7M324.2 942.2l-.1-1.6 -2.3-2.9 -.5 0M325.6 939.4l-1.5 1.2M325.6 939.4l3.5 .4 .3 2.2 -2.6 1.3M325.6 939.4l1.7-3.5 2.2 2.4 -.4 1.5M358.2 955.5l.3-1.4 -3.3-.2M360.5 953.1l-.6-.3 -1.4 1.3M293.3 956.5l1.3-.4 1.3-1.2M293.6 949.2l-.5 .4M297.4 958.2l1.3-.6 .5-1.1M297.4 958.2l-2.8-2.1M297.4 958.2l-.7 1.8 4.6 1 1 .7 .1 .7M309.3 961l-.2-.8 -5.8-.6 .5-1.7 2.3-.8 2.9 1.4 .1 1.7M300.7 949.7l.7-.5 3.1-.9 -1.2-2.6 -.8 .1 -1.1 3.4M291.7 944.9l.4-1 -.5-3.3 -.2-.1M292.1 943.9l2-1.2M291.6 940.6l2.2-.3M299.7 931.9l-.3-2.2M302 932.5l3.8-1.6M304.9 943l-1.6 2.7M304.1 941.9l-2.5-.5 0-4.2M306.9 962.9l1 2.2M306.3 949l-1.8-.7M312.2 946.9l-.3 3M308.9 944.7l.3-.1M288.8 926.5l-.7 .2M286.2 921.7l1.4 4.4M287.6 929.8l-2.4 1.2M283.6 904l-.3 .3M281.8 899.5l-.2 4.4M282.4 912l-1.2-3.8M282.4 912l3.7-1.2M282.4 912l-1.5 1.6M286.7 909.8l-3-2.4M278.3 905.6l-3.3-1.6M278 948.9l1.2-.1M249.6 884.3l3.4-2.8M253.6 887.2l0 0 -.1-4M253.6 887.2l3-1.5M254.2 908.6l-3.1 .5M250.1 913.2l3.1 1.4 1.8-4.1M262.2 922l-1.2-4.6 1.8-.9 .3 0 2.9-.6 .6 2.3 -1.8 2.3 -.2 2.5 .3 .3 1-.1 1.8-3.3 -1.1-1.7M262.2 922l2.4 1M262.2 922l-3.4 1.7M260.9 902.4l-.4-.6M255.1 904l2.1-1.7M255.8 906.1l.8 0M276.9 898.7l-5.6 .5M276.6 899.7l-.7 .9M267.6 902l1.8-1.1M265.2 901.7l-1.1-4.3M264.7 897.1l3.3 1.1M259.9 899.4l1.3-2.4M382.3 883.4l-.2 3 .4 2.4 -.7 .9 .4 2.1 4.8-1.4M372.9 887.1l-2.8 1 -.1 4.2 -2.4 .4 -.3 .1 -.8-3.7 .6-1.1 3 .1M383 896.3l-2.1 2.6 -3.1-2 -.7 3.5 -.8-.2 -1.6-2.5 1.1-2.7 2 1.9M341.2 884.9l3.4 4.3 1-.5 1.2-4.6M340.2 888.7l.7 1.8 2.4 .5 1.3-1.8M349.7 896.9l.7-3.1 4 1.4 .9-3.1 -.6-.5 -.1-3.2 -3.6-.7 -1.4 2.8 .2 1.6 .4 .4 4.5-.9M349.7 896.9l3.9 1.8 .4-.1 .7-2.8 -.3-.6M349.7 896.9l-.4 .3 -3.5-2.8 -.2-1.2 4.2-1.1M350.4 893.8l-.2-1.3M353.6 898.7l-1.8 3.3 3 2.7 .3-5.1 2.6 1.7 -1.8 4 -.6 .3 -.5-.9M345.6 888.7l4 1.8M314.3 884l-.4-.6M326.8 842.9l-1.5-.5 -1.8-3.3 -2.9 1.8 -.7 2.1 1.9 1.1 3.5-1.7M371.6 849.6l2.6 .5M369.7 846.3l.9-.9M366.8 842.2l-1.6-2.7 -2.1 .3M335.5 836.9l-3.9-2 .2 4.1M335.5 836.9l-.1 .3M335.5 836.9l1.7-1.1 -.1-2.4M337.2 835.8l2.9 1.4M338.2 841.3l2.4-1.8M329 840l-1-2.6 3.1-2.9 .5 .4M337.3 832.7l5 .2 .7 2M342.3 832.9l.2-2.2 2.3-.5M318 843.3l1.9-.3M318 838.1l.5-.7 2.1 3.5M318.5 837.4l.1-.3 -1-2.7M319.6 828.4l.4 .1 2 .9 4.8-2.1 -.1-.5M332.2 830.7l-4.3-2.5 -.3 0 -.9 3.5 4.4 2.6 .3-.5M327.9 828.2l4.3-2.4 2.5 1.1 .5 1.7M346.1 841.2l-1.2-3.3M357.4 831.2l-1.9 1.7M356.4 835.2l2.3-.9 1.4-2.8M340.6 824.7l0-.9M329.4 822.8l2.7 3 1-4.5M310.8 823.8l2.7 2.7 2.1-.3M313.5 826.5l-.9 3.9M306.8 827.8l-1.3 3.4M308 827.1l3.9 3.6M308.1 832.7l2.8-.4M298.9 832.2l-.3-.1 -.7-4 -.8-.6 -3.1 1.8 -.1 .5 0 .1 1.3 1.7 3.4 .5M301.5 830.4l-1-2.3 .4-3.6M288.4 825.6l1.3 3.1 -.9 2.8M304.8 839.3l-.2-.1M304 844.4l1.5 0M304 844.4l-.5 .4M304 844.4l-2.8-3.8M301.5 852.5l-.9-4.5M304.5 848.5l-.3-.1M298.9 833.6l1.2 2.5M294.2 837.7l5.1 .2M289.7 828.7l4.2 1.1M289 831.9l2.2-.3 1.4 4.4M297.3 843.7l-3 .9M293.4 839l-2.8 3.1M350.1 947.9l1 2.5M350.1 947.9l-1.9-1.1 -1.8 5.1M350.1 947.9l3.7-3 -2.9-2.6 -.2 0 -3 2.6 -.4 1.1 .9 .8M321.8 937.7l2.8-3.9 -.7-1.1 -2.9-1.2M316.1 929.9l.3-3.1 -2.1-1.4 -.9 .4M320.7 930.8l0-.1 3.4-4.4 1.3 .6 .1 2.5 -1.6 3.3M332.3 951.3l4.4 .6 -1.6-3.7 -1 .1 -2.3 2.3M365.9 931.1l3.3-.7 2.3 .7 -1.2 3.9 -4.1-.6 -.6-.6 .3-2.7 -1.6-2.8 1.3-1.6 .9-2.6 .7-.5 3.5 2.8 -1.5 1.3 -3.6-1M317.3 906.2l1.5 2 2.8 .8 1 2.2 -1.4 1.4 -2.5-1.5 .1-2.9M320.3 904.6l1.8 2.4 -.5 2M317.4 915.7l2.5 .4 .8-.6 .5-2.9M315.8 911.6l2.9-.5M318 920.8l1.7-1.7 .2-3M347.7 912.1l.9 1.5 -2 3.4 .6 .2 2.5 .6 .6 3.7 -.7 .4 -2.4-4.7M347.7 912.1l2.1-3.3 2.5 1.9 -1.2 2.9 -2.5 0M347.7 912.1l-2.9-1.2 -2.6 3.3 -.1 1.5 .2 .1 .2 6.9 -2.2 .1 -.7-.6 .3-5.2 .5-.7 -4.5-2.4 -.9 .6 -.5 1.5 .5 2.8 .7 .4 4.2-2.2M302.5 919.5l-.7-4.3 1.8 .1 2.6 3.9 .7-.3M304.9 920.6l1.3-1.4M306.3 913.6l-2.7 1.7M306.4 913l-1.2-1.3 -4 3.1 .6 .4M306.6 907.7l-1.5 .4M306.4 903.1l-3.4 2.4M310.7 926.2l-1.7-1.7 .2-.2M309 924.5l-.8 0M263.5 938.7l-1.9 .1M264.9 935.4l-.1 0M266 915.9l.8-.7 1.3 0 2.9 .9M263.1 916.5l1.7 4M268.1 915.2l1.8-4.3M266.8 915.2l-1.3-4.7M263.7 926l1.2-2.7M265.1 928.9l3.8-2.4M271.5 917.1l.8 2.6 -.1 .1 -4.5 .1M276.3 915.2l.8 .4 -3.5 4.4 -.6 .1 -.7-.4M272.2 919.8l-2.3 2.6M288.2 848.6l-1.9 .6M288.4 842.8l.6 .1M282 834.9l-1.8 4.7 .1 1.1M270.1 856.5l1.1 1.2 .9 1.8M270.3 854.6l1-.8 -2-5M280.1 859.5l-.5-.9 -3.1-.2 -2.6 2.4M290.2 853.1l-4-1.6 -2 2.7 .5 .6 3.1 2.1M289.6 855.7l-1.6 1.2M282 845.5l.7 .6M280.6 845.2l-3.1 2.8 -2.2-1.1 .6-5.4 2.7 .5M277.5 848l.6 1.3 -4.8 3.5 0 .1 1.9 1.2 3.1-.6 .4-3.5 -.6-.7M307.2 852.6l.7-5.6M307.8 852.8l.5-.4M310 846.7l.9 1.2M314.1 853.4l1 3.1 4.8-1.1 .3 .2 -.5 3.5 -4.3-1.3 -.4-.6 .1-.7M314.7 851.8l3.3 1.3 3.5-3.3 -.6-.6M304.2 862.8l2.5 2.9 2.5-1.5M305.1 861l.1-.1M315.1 846.9l-1.1 3.1M318.5 849.1l-3.9 1.7M327.3 854l-3-.2 -.4-.1 -1-3.2 2.3-2.4M328.8 855.6l-.1 3.3M310.8 859.2l4.2-2M319.5 869.9l-.8-1.9 2.3-2.5 -4.3-1.8 -1.9 2.5 0 .5 3.9 1.3M298.9 864.8l1.9 3M295.9 865.5l1.2 2.9M297.8 873.6l-.3-.5M301.7 868.4l-.1 0M292.8 872.5l-2.1 3.7M287.1 873l3.2 3.2M287.4 870.4l-.2 .4M298 874.3l-.3 .6 -.4 3.4 -4.5 .8M297.7 874.9l-6 2.2M301.7 875.6l-.2 3.9 -2.7 1.3 -1.5-2.5M310 886.9l-1.2-4.4M305 885.6l.8-2.4 .8-.6 -1.5-3.6 -1.8 1 .3 1.9 2.2 1.3M329.5 889.4l.5 .4 4.2-2.3M368.9 947l.8 2.9M368.9 947l-1.4-.6 -2.1 1.7M368.9 947l3.2-1.3 1.1 .5M365.6 933.8l-2.4 .9 -1 1.3 -3.5-.2 -.7 1.4 .5 2.6 .1 0 3.5 .5 .4-.5 -.3-3.8M327 944.4l2.2 2.5 .3 .4 -.8 2.7M298.7 957.6l2.6 3.4M303.3 957.1l.5 .8M310 957.3l-1 1.2M302.5 945.8l-3.3-.6 .2-3 2.2-.8M291.5 944.8l-3.9-1.8M287.5 947.4l.5 .2M287 943.3l.3-.3M291.7 936.1l-.4 4.2M288.7 935.6l-1.2 .7 -2-.8M287.5 936.3l.1 1.8M300.7 937.1l-3.4 2.7M311 965.1l.6 1.6M306.5 949.9l1.9 .9M306.9 954.6l-.8 2.5M309.1 954.2l.2-.2M276.8 926.2l-2.1 3.2M276.2 931.5l.9-.3 3.7-4.6M277.1 931.2l3.9 1.2M280.8 923.2l0 3.2M281.9 928.3l.6 1.6M246.1 917l.7 .2 .9-.3M253.2 914.6l.2 .4 4.7-.2 .5-2.6M248.4 907.2l-2.5 1.5M262.8 916.5l-.9-4.3M261 917.4l-.5 0 -3.2 2.7 .6 3.4M250.7 923.7l1.2-.1 3.4 1.8M271 901.3l-.5-.5M382.3 894.6l.7 .9M382.3 894.6l-.1-2.8M382.3 894.6l-5-1.1 3-3.8 -2.9-1.7 -2-.7 1.2 6.3 .7-.1M382.1 886.4l-4.7 1.6M355.3 892.1l2.8 .3 -.2 2.9 -3.2 .5M353.7 882.9l1.7 1.4 -.5 3.9 -.3 .2M350.5 886.1l.5 1.6M359.4 883.3l-.5 .9 3.1 2.8 2.9-2.7M355.4 884.3l3.3 .1 -.6 3.9 -3.2-.1M366.4 885.7l.7 2.3M371 895.6l1.3-2.1 3.5 .9 .8-.8M371 895.6l-1 2.2 1.4 1 3.3-1.1M371 895.6l-3.4-2.9M375.8 894.4l0 .6M371.7 892.7l.6 .8M371.7 892.7l1.9-5.4M371.7 892.7l-1.7-.4M375.3 887.2l.1 .1M380.9 898.9l-.8 2.1 .1 .2 -2.4 3.4 -3-.5 -.2-1.7 -3-1.4 -.2-2.2M370 897.8l-3.2-.1 -.7-3.2 1.2-1.7M335 888l.1 1.3 -.2 3.4 -.8 .4 -3.8-1.4 -.3-1.9M355.1 899.6l-.4-.6 -.7-.4M323.5 839.1l0-.3 3.6-1.8 .9 .4M321.8 844.1l0 .2 -.9 3.4M321.8 844.3l3.5 3.4M331.1 834.3l0 .2M318.6 837.1l4 .4 .9 1.3M327.6 828.2l-.8-.9M326.7 831.7l-.5 .5 -3.2-.5 -1.4 2 1.4 1.6 2.7-.7 .5-2.4M342.3 841.1l-.3-.5M358.7 834.3l2.7 1.6M346.9 829.4l0-1.2 -1.4-1.3 -.4-2.3M341.9 827.4l3.6-.5M342.5 830.7l-1-1.1M334.7 826.9l.9-1.7 -1-4M332.2 825.8l-.1 0M317.7 833.9l3.9-.2M292.4 824.6l1.6 4.7M291.2 831.6l2.7-1.7M293.5 836.5l1.7-4.9M344.8 952.9l-3.2-1.4 2.8-4.1 1.4 4.6M350.3 953.6l-.2-.9M342.1 915.7l-1.7 .6M316.4 926.8l2.8-1.2 -.1-1.7 3.4-2.6 1.2 .2 -.2 4.1 -4.1 .1 -.2-.1M314.3 925.4l0-2M318 922.3l1.1 1.6M334.1 948.3l-2.3-2.3 -2.3 1.3M367.4 942.8l-1.3-2.9 -3.6-.1M367.4 942.8l-.4 .9 -3.9 .6 -.2 .6 .6 2.3 1.3 .9M367.4 942.8l1.5-.2 2.6-4.5 .7-.4 .7 .2 .8 2.1 -2.7 3.4 -2.1-.8M366.1 939.9l.5-.9 -.4-4.6M350.7 942.3l-2.2-4.3 -.9-.4 -1.5 2.1 1.6 5.2M350.9 942.3l3.3-2.6 1.9 1.6 2.4-1.5M353.8 944.9l.9 0 -.1 4.9 4.4 .3 .2-1 -.8-3.1 -.5-.6 -2-1 -1.2 .5M369.2 930.4l0-2.7M324.5 910.9l-1.9 .3M324.5 910.9l.7 1.2 .2 3.2 3.4 .7 .4-.7 .4-1.5 -4.4-1.7M324.5 910.9l1.6-1.8 .2-2.4 -4.2 .3M320.7 930.7l-1.3-5M305.2 911.7l-1.3-1.6M300.7 912.9l2.3-2.5M300.6 914.5l.6 .3M259 938.3l-.3-6.5M261.1 934.8l-.8 3.7M265.9 923.2l1.6 .8M273 920.1l.6 4.2 -1.6 1.7M277.5 921.8l-.9-1.2 -3-.6M275.7 925.1l-2.1-.8M280.2 839.6l-2.4-3.6M271.3 853.8l2-.9M271.2 857.7l4.2-1.2 1.1 1.9M275.4 856.5l-.2-2.4M280.5 855.5l-.9 3.1M280.5 855.5l2.6-1.2 .6 0 -.1 5.6M280.5 855.5l-2.2-2M275.3 846.9l-1.5 .6 -3.4-3.6M275.2 840.9l.7 .6M284.5 860.3l.2-5.5M286.2 851.5l-.1-1.4M281.2 850.1l1.9 4.2M281.2 850.1l-2.5-.1M281.2 850.1l.4-.3M284.2 854.2l-.5 .1M304.1 869.7l2.7-3.2 2.6 1.7M305.3 872.1l.5 .2M306.7 865.7l.1 .8M324.3 867.6l-.3-2.2 -1.3-.4 -2.6-4.7 -3.2 2.1 -1.4-1.3 -3.5 .1M330.1 867.3l-3.5-2.9M301.4 884.2l2.2-2.3M298.8 880.8l0 0M301.5 879.5l1.8 .5M308.6 882.4l-2 .2M305.6 878.3l-.5 .7M327.6 893.5l.5 .1 2.2-1.9M324.6 897.2l0-.3M367 943.7l.5 2.7M363.1 944.3l-1.1-2.4 .1-1.6M359.4 943.7l2.6-1.8M359.4 943.7l-.8-3.9M359.4 943.7l-1.5 1.7M363.2 934.7l-2.5-2.5 -1.6 .2 -.1-4 2.9-.6 .8 .4 -2 4M303.3 959.6l-1 2.1M295.4 961.2l1.3-1.2M299.4 942.2l-1.2-.8M299.2 945.2l-.6 1M295.2 947.2l.1-4M283.9 920.2l-2.5-2.8M282.1 921.4l-3.5-2.9 -2 2.1M246.8 917.2l.6 3.7M250.6 918l1.5-.3 .2 5.1 3.2-3.5 -.7-1 -1.5-1.6 -1.2 1M249 922.8l-.7-.2M260.5 917.4l-1.7-1.7 -.7-.9M382.5 888.8l3.6 .1M381.8 889.7l-1.5 0M354.7 899l4.3-1.7 -1.1-2M358.1 888.3l1.2 1.3 2.7-2.3 0-.3M358.9 884.2l-.2 .2M377.8 904.6l.8 2.3 2.9 .6 1.5-3.3 -1.2-1.6 -1.6-1.4M380.1 901l-3-.6M371.6 901l-.5 .8 -3.1 1.1 -.8-.3 -1-4.1 -1.8 .5 -1.3 3 1.6 3 -.3 .9 -4.1-.4 .2-3.2 2.6-.3M374.6 902.4l1.7-2.2M374.8 904.1l-1.6 2 -1.5-1.6 -2.7 0 0 4.1 .9 1 3.2-2.6 .1-.9M378.6 906.9l-2.2 1.8 .3 1.9 3.1 .7 2.6-1.6 -.9-2.2M376.4 908.7l-3.3-1.7M335.1 889.3l5.4 1.5 -2.2 2.6 -1.3 .5 -2.1-1.2M328.1 893.6l1.2 2.2 -1.4 2.4 -2.2 .6 -.1 0M349.3 897.2l-2 2.1 2 3.3 2.5-.6M323.2 902.3l2.3 2 2.5-2.3 -2.3-3.2M365.2 839.5l1.1-1.7M327.1 837l-1.4-2.4M322.6 837.5l.4-2.2M320 828.5l4.3-4M322 829.4l1 2.3M346.9 828.2l3.3-3.2M335.6 825.2l4.7-1.7M297.7 824.6l-.6 2.9M300.5 828.1l-2.6 0M359.9 952.8l-.1-.6 4.7-3.4M354 950.2l.6-.4M325.5 929.4l4.2 1.3 .4 .6 -2 2.7 4.6 2.1 -.2-5.1 -2.4 .3M324.6 933.8l2.4 .8 .3 1.3M331.8 946l1-3 -1.2-.5 -.1-4.6 1.7-1 1.1 .4 1.3 3.4 -2.7 2.3 -.1 0M329.2 946.9l1-4.6 -.8-.3M371.5 931.1l1-.4 -1.7-4.3 1.4-.9 .8-.4 2.6 .9 1 1.7 -1.6 2.2 -1.6 .8 -.9 0M346.1 939.7l-2 .9 -.8 5.1 -3.5-.4 -.7-1.9 4-3.1 1 .3M346 935.7l-.4-3 1.7-2.2 2.7-.1 1.2-2.8 -.3-.8 .1-.2 2.8-3.6 1 .1 1.6 1.5 -.2 3.3 -.5 .5 -4.5-.8M346 935.7l1.4 1.3 1.9-2.3 1.8-2.5 .5 .2 -.1 2.8 -2.2-.5M346 935.7l-4.6 .4 -1.4-.9 -.2 0 -1.4 3.4 2.8 .5 .4-.3 -.2-2.7M345.6 932.7l-3.9-1.8 3.5-3.9 0-1 -.2-.3 -5.4 1.5 .1 2.4 1.6 1.4 .4-.1M347.3 930.5l-2.1-3.5M350 930.4l1.1 1.8M364.3 928.3l-1.6-.1M356.4 924.6l3.8-1.4 .2 .2 1.5 4.4M376.7 910.6l-.5 .8 -.2 3.2 -.2 .2 2.2 3.3 2.2-2.2 -.9-1.1 -3.3-.2M368 922l4.2 3.5M368 922l0-.1 1.8-.6 2-4 .8-.9 .3 0 2.9-1.6M368 922l-.8 1.6M346.6 917l-.1 0 .9 5.6 -2.5 1.5 -.8-.8 1.3-6.3 1.1 0M323.2 916.4l-2.5-.9M323.2 916.4l2.2-1.1M323.2 916.4l2 4 -1.5 1.1M319.7 919.1l2.8 2.2M329.6 913.8l.8-1.1 4.6 1.8M328.8 916l.3 3 -2.6 1.5 1.5 5.3 .6 .1 .7-.2 2.2-3.5 -1-2.3 -.6-.5 -.8-.4M329.2 915.3l4.1 .9 1.2-.2M251.8 935.2l-.1 .4M278.6 918.5l0-.4M277.1 915.6l.5 0M273.3 852.8l-.3-4.3 -3.6 .2M273 848.5l.8-1M324.3 853.8l1.4 4.9 -2.3 .2 0-4.7 .5-.5M325.7 858.7l1.4 1M323.4 858.9l-.6 .7 -2.7 .7 0 0M318 853.1l1.9 2.3M321.5 849.8l1.4 .7M323.4 854.2l-3.2 1.4M322.8 859.6l2.9 2.7M322.7 865l-1.7 .5M324 865.4l1.5-1.1M316.9 862.4l-.2 1.3M315.5 861.1l-.1-3.3M320.1 860.3l-.4-1.2M327.9 898.2l3.5 2.7 1.9-1.4 -.1-.3 -3.3-3.4 3.8-2 -.5 5.4M329.9 895.8l-.6 0M362.9 944.9l-4.5 1.1M363.5 947.2l-4.3 1.9M359.8 952.2l-.8-2.1M356.1 941.3l-.2 3.1M354.2 939.7l-.8-2.2 .3-.5 4.3 .2M358.7 935.8l-1.1-2.5 1.5-.9M355.7 928.4l-.2 3 1.5 1.7 .6 .2M356.2 927.9l2.8 .5M355.5 931.4l-3.4 1.1 1.8 3.9 3.1-3.3M246.3 923.7l-3.1 .5M257.3 920.1l-1.8-.8M251.9 923.6l.4-.8M258.8 915.7l-4 2.6M253.4 915l-.1 1.7M366.5 889.1l-2.4 .3 -2.1-2.1M358.1 892.4l1.5-.9 -.3-1.9M359 897.3l1.3 .6 .2 .4 -.8 2.5 .8 1.5M364.1 889.4l-1.7 2.1 -2.1 .2 1.2 3.6 4-1 -3.1-2.8M359.6 891.5l.7 .2M381.8 902.6l4.7-3.3M368 902.9l1 1.6M371.1 901.8l.6 2.7M383 904.2l2.6 .1M379.7 913.3l.1-2M379.7 913.3l-.4 1.5M379.7 913.3l4.3 0M382.8 909.9l-.4-.2M382.8 909.9l1.2 1.6M382.8 909.9l2.4-1.6M377.4 933.4l3.6-2.8M377.4 933.4l0 .5 -3.3 .2 -1.2 3.8 4.6-1.5M377.4 933.4l-2.4-3.5M376.7 927.7l4.3 2M376.7 927.7l-.1 0M376.7 927.7l4.2-4.1 -.5-1.2 -3.9-.1 -1-2 0-.3 -2.6-3.6M376.8 942.7l-3.1-2.7M372.1 945.7l-1.1-2.3M372.6 916.4l-2.5-3.4 .1-1.8 -.4-1.4 -6.9 1.7 -.3 .7 0 .1 7.2 .9 .3-.2M376.2 911.4l-6-.2M367.2 902.6l-2.5 2.4M359.7 900.8l-2 .5M355.9 905.3l4.1 .3 .3-.1M337 893.9l.7 4.6 -.5 .3 -2.7 .9 -1.2-.2M333.7 893.8l.4-.7M338.3 893.4l3.7 1.9 1.8-3.2 -.5-1.1M340.9 890.5l-.4 .3M337.7 898.5l2 .4 2.7-1.2 -.4-2.4M337.2 898.8l.8 6 -.8 1 -1-.2 -1.7-5.9M326.1 909.1l3.4 2 .7-5.2 .5-.2 1.9 4.3 -2.2 2.2 -.9-1.1M326.3 906.7l.1-.1 -.9-2.3M358.4 914l.9-1.7 -1.5-1.6 2.2-3.2 0-1.9M358.4 914l0 .6 3.1 2.8 2.2-1.6 1.6 .8 .6 1.5 .1 .7 -2.9 2 -2.6 .2 -.6-1.3 1.6-2.3M358.4 914l-3.5 0 -1.7 2.3 .1 .1 4 .1 1.4 2.9 -2.3 .6 -3.1-2.7 -.1-.5 .1-.4M355.3 905.6l-.1 .1 0 4.1 2.6 .9M364.5 906.2l-.1-.3M364.5 906.2l4.5 2.4M364.5 906.2l-1.6 4.9 -2.9-3.6M340.7 951.7l.1-.1 -1.5-5.5 -2.4 6 .1 .1M330.2 942.3l1.4 .2M333.3 916.2l-3.4 3.2M334.3 926.9l-.4 .6 -4.6-1.8M334.3 926.9l-1.3-4.1 -1.5-.6M334.3 926.9l.1-.1 3.8-.7 -1.9-3.1 -1.9 3.8M335.3 930.8l-1.3-.7 -1.5 .9M335.3 930.8l1.6 4 -2.6 2.5M335.3 930.8l4.4-1.2M342.5 922.7l1.6 .6M342.3 915.8l3.1 1.2M348.9 922.5l2.1 4.1M348.9 922.5l.7-.6M348.9 922.5l-1.5 .1M350.9 926.8l-5.7-.8M370.3 935l1.9 2.7M366.6 939l4.9-.9M374.1 934.1l-.7-3.4M372.9 937.9l0 0M377.4 933.9l.7 1.8M347.3 946l-2.7 .4 -.2 1M348.5 938l4.7-.5 .2 0M347.6 937.6l-.2-.6M370.7 926.4l.1 0M366.5 924.1l-1-.4 -5.1-.3M360.2 923.2l.3-2.2M365.5 923.7l-2.4-2.9M352.2 921.5l1.6 1.5M352.2 921.5l-1.9 0M352.2 921.5l1.1-4.2M354.8 923.1l1.6-3.1M377.8 919l-2.3 1M377.8 919l.2-.9M377.8 919l3.1 1.4 -.5 2M380.2 915.9l3.2 1.3M371.8 917.3l-5.9 .8M369.8 921.3l2.4 1.2 3.3-2.2M368 921.9l-2-3.1M372.2 922.5l.8 2.6M376.5 922.3l-.9 3.7M349.7 917.8l3.5-1M325.2 920.4l1.3 .1M325.4 926.9l2.6-1.1M324.1 926.3l-.6-.7M310.4 864.3l-.3 3.5M311.9 863.8l2.9 2.4M314.3 867.6l.5-.9M331.4 900.9l-.5 1.2 -2.9-.1M366.1 894.5l-.6-.2M360.5 898.3l3.9 .7M360.3 897.9l1.2-2.6M366.8 897.7l-.6 .8M369.9 909.6l-.1 .2M358.4 914.6l-1.1 1.9M343.8 892.1l1.8 1.1M345.8 894.4l-1.7 3.8 -1.7-.5M330.4 912.7l0-.5M326.4 906.6l3.8-.7M330.9 902.1l.4 2.9 4.7 .7 .2-.1M331.3 905l-.6 .7M353.2 916.3l-2.1-2.7M354.9 914l0-4 .3-.2M359.3 912.3l3.3-.1M362.9 911.1l0 .4M335.1 948.2l1.2-1.4 3-.9 0 .2M336.3 946.8l-3.4-3.8M336.7 951.9l.2 .2M339.3 945.9l.5-.6M344.6 946.4l-1.3-.7M341.6 951.5l-.8 .1M329.5 938.3l2-.4M332.7 936.1l.5 .8M327 934.6l1.1-.6M336.9 934.8l2.9 .4M333 922.8l3.2-1.3 -.5-2.3M336.2 921.5l.2 .2 3.2 .5M335 918.8l-4.5 1.1M335.9 913.9l.3-2.2 -2.6-1.7 -1 0M339 926.2l1.3-3.4M339 926.2l.6 1M339 926.2l-.8-.1M336.4 921.7l-.1 1.3M345 925.7l-.1-1.6M341.3 931l-1.3 4.2M333.9 927.5l.1 2.6M329.7 930.7l-1.1-4.8M353.2 937.5l-1.7-2.3M353.7 937l.2-.6M352.1 932.5l-.5-.1M369.8 913.2l-4.5 3.4M362.6 912.3l1.1 3.5M359.9 919.7l-1.2-.3M347.3 899.3l0 0 -2.6-.5 -.6-.6M347.3 899.3l-2.5 4.9 -1.3-2.3 1.2-3.1M349.3 902.6l-.5 1.7 1.5 2.1 4.9-.7M339.7 898.9l1 3.6 2.8-.6M336 905.7l-2.4 4.3M337.4 910.7l.5-3.6 -.7-1.3M337.4 910.7l-1.2 1M337.4 910.7l2.9 .9 1.9 2.6M354.9 910l-2.6 .7M349.8 908.8l0-.1 .5-2.3M343.1 940.3l-1.5-1.5M339.1 943.4l-1-1.5 -1.3-.9 -1.2-.3M338.1 941.9l3.1-2.8M336.8 941l1.6-2.4M380.9 923.6l1.6 1M380.9 920.4l2.4-2.3M348.8 904.3l-3.2 1 -.2 3 -.8 1 -3.1-1.1 -.1 0 1.1-3 2.4-.4 .7 .5M349.8 908.7l-4.4-.4M338 904.8l2.3-1.2 .4-1.1M337.9 907.1l3.5 1.1M344.8 904.2l.1 .6M340.3 903.6l2.2 1.6M344.8 910.9l-.2-1.6M340.3 911.6l1.2-3.4"/>
<path fill="#cbc9e2" d="M470.9 847.5l-1.1 1.7 2.5 2.7 -4 4.4 .5 2.3 -2.5 1.9 -.8 1.9 -.3 .3 -5.1 .8 .2 2.9 -1 1 -.7 1.5 .7 2.5 -1.3 2 2.5 2 1.3 1.7 -.6 1.2 -.3 1.8 -2.5 2.7 -.6 .1 -1.1 4.7 1.4 1.8 -2.6 3.9 .8 2.7 -1.8 4.8 1.2 2.5 -1.1 1.6 1.9 3.2 -1.3 2.1 3.4 4.1 1.7 4 -1.1 1 -1.3 3.1 3.8 1.1 .2 .5 1.2 1.7 -.3 1.9 2.1 2.1 -.8 2.6 4.6 2.3 .1 2.1 .7 .7 0 4.1 2.3 1.4 2 .4 .9 2.9 1.1 2.6 .7 .1 2.3 1.2 0 3 2.9 .7 1.8-2.1 1.1 0 1 .8 -.5 5.5 2.7 .5 .1 .3 3.7 2.4 .6 1 1.1 .1 1.2 .5 4.7-1.6 1.4 2.7 -.2 2.1 3.1 1.7 3.2-1.7 1.9 1.3 2.9-2 .5 .1 .5 .8 2.2 2.2 2.7-1.7 2.5 .6 2.1-1.6 2.1 .5 .8 .8 4.1 1.1 .5 1.1 4.7 .2 2.2-1.3 1.8 .6 1.7-1 3.3 1.3 .3 3.9 6.2-5 1 1.4 1.1 .6 1.8 .4 .8-.2 .7 .1 4.2-1.2 -.1-1.4 1.7-2.1 1.7-.1 2.1-1.2 1.2 .4 2.1-2.2 .3-1.2 3.9 .1 1.4 .7 1.9-1 .4-.8 -.5-1.9 1.9-2.7 -1.3-2.8 3.6-1.2 .4 .2 3.6-3.2 -.2-2.8 4.2-1.3 .2-3.1 -.3-.7 .2-2.1 4.8-.9 -.8-3.9 1.3-.3 2.6 .5 .7 0 1.5-1.3 .4-3.7 -.3-.4 0-4.1 .3-.4 -.5-2.9 3.7-2.1 -1.6-1.6 .2-3.7 2.8-.6 .2-1.1 1-1.6 .4-7.3 -.3-.4 -1.3-.6 -.8-3.1 -2.9-1 2.1-2.4 .5-3.4 -1.3-.4 -.8-3 1.3-3.7 -.1-.8 -2-3.5 -1.9 .2 -1.5-1.6 -.7-2.7 .8-1.3 -2-3.9 -.1-4.7 -.6-.2 -1.7-1.4 -.8-3.9 -1.7-2.1 -.8-.1 -3-3.7 -2-.6 -.3-1.5 -6.1-1.8 1.4-2.2 -1.1-2.4 .1-2.3 -1-1.9 -4.1 .9 -2.9-2 -.2-1.5 -1.6-1 -1.7 .2 -2.8-2.2 .3-1.4 -1.5-3.4 -3-1.1 -3.6 1.8 -2.6-3.5 -1.7-.7 -1.1 .4 -1.2 2.1 -1.4 1.1 -.7-.1 -3.1-3.4 -1.1 .4 -3.7-.8 -.7-1 -3.6 .4 -.6-1.7 -.9-.4 -4.9 1.4 -.9-1 0-3.2 -2.6-1.9 -2.3 2 -4.3-.6 -.6 .5 -1.1 .2 -2.7-.1 -1.5-1.3 -3 2.8 -3.3-.5 -1.2 3.4 -4.3-.6 -.3-.3 -3.8-.8 -.5 .2 -.5 1.8 -2.3 2.7 1.2 3 -.7 .4 -5-.2 -.6 1.6 -3.4 .5 -1.9-.5 -1.3 2.9 .2 .9 -3.1 2 .1 1.9 -3 1.2 -.2 2.5z"/>
<path fill="#1f77b4" d="M508.3 824.7l.4 2.8 -.2 .5 -4.4-.4 -4.5-.6 -.3-.3 -3.8-.8 -.6 .2 -.4 1.8 1.9 3.7 2.9-1.2 1.8 2.4 2.5-1.3 .7-.8 3.1 .8 .5 2.9 -1.6 1.3 -.6 .9 .3 .7 .4 3.8 1.7 .9 2.3-3.3 2-.8 .1-2.5 2-1.8 -2.3-3.6 .3-.7 4.2-.6 .6 .4 -2.2 4.4 2.2 1.2 .4 0 1.9 3.3 -1.7 1.3 .9 3.5 -1.4 1.2 -1.9-.5 -2.5 2.8 0 1.4 3.8 0 -2.5 4 -2-.8 -1.8 1 -2.6-.4 -2 4.9 -2.6 1 0 .7 2.7 3.1 2.9-.2 .9 .5 -5.1 3.3 1.7 2.1 2.8-1.9 .6-.9 4.1 2.5 .7-.4 .8-1.8 3.2-.5 .9 .7 3.7-2.6 .8 .4 .5 2.6 3 .6 .8-.3 3.1 1.5 -.1 1.2 -2.1 1.8 -1.2 3.6 -2.5-.5 -.8 .5 -1 2.3 -3.4 .4 -1.4-2 -4 0 .1-2.5 -2.8-2.9 -1.1 .5 -.7 2.9 1.9 2.3 2 .3 .2 2.1 .4 .4 4.7 1.5 .1 .4 -2.4 3.2 -.8-.3 -5 2.1 -1.8-.6 0-1.6 -1.2-2 -1.4-.7 -1.6-3.8 -2.6 3.9 -.2-.3 -1-4.4 -1.6 .4 -2.8-.5 -1.4 1.3 -.9 1.9 -3.5-1.5 -2.6 1.6 -.2 1.3 2.7 2.6 3.6-3.7 2.8 2.7 .4 .9 1 .5 3.5-.6 .7 1.1 4.8 2.3 -1 2.8 -.7 .5 -.1 1.6 1.8 2.4 -.6 2.8 -3-1.6 -.8 .3 -.3 1.7 1.9 4.5 3-.8 .8-2.4 .7-.5 5.2 1 .1 1.1 1 1.3 2.4 .4 1.2-4.5 -3.8-.2 -.5-1.4 .8-2.3 -1.1-2.5 .9-1.8 .8-.5 1.3-2.6 4.3 .3 .9 .7 .5 .1 .9-.1 3.1 2.3 3.2-3.5 -.4-2.3 2.8-1.2 2.2 3.1 -2.5 1.9 .5 3.7 -5.2 0 .7 4.5 -4.3 1.6 .2-2 2.8-3.6 -4.6 .5 -1.6 .6 -.9 2.5 .4 1.7 2.2 1.2 .8 0 1.8 1.9 4.2-.6 -.4 4.2 .2 .4 -2.1 3.1 -1.2-.1 -1.4-1.4 0-1.9 -4.1-1.2 -.9 .7 -.4 3 -1.3 1.3 -3.7-1.6 -3.3 2.3 1.1 3.8 1.9 .4 .8 4.4 2.1 .4 2-1.4 -.1-.9 1.2-2.7 1.7 .7 2.4 2.3 -.8 1.8 2.9 2.2 -.3 1.5 1.3 3.4 1.4-.3 3 .7 .9 2.7 -2.1 3.3 -2.7 1.5 -.3-.2 -2 .5 -2.5 2.1 -1.6 0 0 3.3 -4.9 1.1 0-4.2 -4.1 .5 .7 3.2 -1.8 .3 -1.7-1.2 -2.1 2.5 .1 1.9 2.7 .5 1 .9 -2 3.2 -2.2 .1 .4 2.5 -3 1.6 .5 1 3.5 1.6 1.3-1.6 0-.4 1.4-2.6 2-.7 3.3-.8 1.6-1.4 1.6 .4 .4-.1 1.9-4 .4-3.4 3.5-.4 1 .7 .2 2.1 -1.1 1.8 .2 1.1 -2.3 3.5 1.2 1 1.9 .4 2.5 3.3 -.7 .5 -1.6 2.7 .6 1.7 3.2 1.1 0 .7 -1.8 2.7 -.3 1.7 -5.1-1.7 1.5 4.4 -1.7 2.1 .8 .9 4.2 1.1 1.9-4.8 .3 0 1.3 .9 1.7 5 2.1-1.1 1.8 .6 1.7-1 3.3 1.3 .3 3.9 6.2-5 1 1.4 1.1 .6 1.8 .4 .8-.2 .7 .1 4.2-1.2 -.1-1.4 1.7-2.1 1.7-.1 2.1-1.2 1.2 .4 2.1-2.2 .3-1.2 3.9 .1 1.4 .7 1.9-1 .4-.8 -.5-1.9 1.9-2.7 -1.3-2.8 3.6-1.2 .4 .2 3.6-3.2 -.2-2.8 4.2-1.3 .2-3.1 -.3-.7 .2-2.1 4.8-.9 -.8-3.9 1.3-.3 2.6 .5 .7 0 1.5-1.3 .4-3.7 -.3-.4 0-4.1 .3-.4 -.5-2.9 3.7-2.1 0-.1 -1.6-1.5 .2-3.7 2.8-.6 .2-1.1 1.1-1.6 .1-3.3 -.1-.2 .3-3.8 -.3-.4 -1.3-.6 -.8-3.1 -2.9-1 2.1-2.4 .5-3.4 -1.3-.4 -.8-3 1.3-3.7 -.1-.8 -2-3.5 -1.9 .2 -1.5-1.6 -.7-2.7 .4-.3 .4-1 -2-3.9 -.1-4.7 -.6-.2 -1.7-1.4 -.8-3.9 -.4-.3 -1.3-1.8 -.8-.1 -3-3.7 -2-.6 -.3-1.5 -6.1-1.8 1.4-2.2 -1.1-2.4 .1-2.3 -1-1.9 -4.1 .9 -2.9-2 -.2-1.5 -1.6-1 -1.7 .2 -2.8-2.2 .3-1.4 -.9-2.3 -.4-.6 -.2-.6 -3-1 -3.6 1.8 -2.6-3.5 -1.7-.7 -1.1 .4 -1.2 2.1 -1.4 1.1 -.7-.1 -3.1-3.4 -.8 .2 -.3 .2 -3.8-.8 -.3 3 3.1 0 1 3.2 -.4 1.6 -3.1 .6 -.7-.4 -3.1 0 -1.3 2.9 1.2 1.6 -.2 2 -1.6 1.7 -2.6-2.2 -2.1 .3 -.8-1 -.7-3.6 2.5-.9 .4-3.2 -1.8-.9 .4-3.8 -.2-.1 -.3-2 -.9-1.1 0-3.2 -2.6-1.9 -.3 .2 -2 1.8 -4.3-.6 -.6 .5 -1.1 .2 -2.7-.1 -1.5-1.3zM550 966.3l-.5-1.9 2-3 2.2 1.2 .2 1.5zM552.7 942.9l.3-3.5 4 .6 .1 3.5 -.6 1 -1 .2zM549 913.1l-1.2 .4 -1.6-3.1 -4.3 2.1 -.6-1.1 0-1.4 2.2-3 2 .3 1.4-.7 1.4-.3 2.8 1.6 .3 .6zM553.4 867.3l-1.4-4 3.2-.7 3.7 2.1 .4 1.1 -.1 .4 -2.3 1.5 -2.7 0zM550.9 844.5l4.8-.2 .2 .4 -1.3 3.7 -.5 .5 -2.6-.3zM535.8 846.5l1.7-.3 1.6 1 .1 1.2 2 1.3 -.5 4.4 -.2 .1 -3.2-1.2 -1.4-.9 -.7 .1 -.7-.8zM515.3 853.2l-.2-.9 2.7-.8 2.1-.9 0-2.3 2.7-1.5 .5-2 4.1-.3 .4 2.9 2.4 1.4 -3.1 3.2 -2.2-1.2 -2.9 1.7 .1 1.7 -2.1 3.2zM531.3 896.6l-.1-1.3 -1.8-1.5 4.9-4 .2 .1 2.4-.8 1.8 .3 .1 1.6 -.6 3.6 -1.5 .4 -1.2 3.6 -1.7-.4zM528.6 916.6l-.7 .1 -.5-5.4 2-.5 .1 .1zM531.9 937.5l-2.9-1.5 .9-1.4 3.4-.7 .4 .5 3.1 1.8 .3 .4 -1.1 2.2 -3.3 1.4zM541.5 921.5l-.9-2.4 .8-.6 3.4 .5 1.9 3.1 -.8 2.8 -5.7 .8zM538.5 869.2l-2.4-2.7 2.4-2.6 1.7 .8 .5 .5 -1.2 4zM537.2 931l3-1.6 .7 2 -3.5 2.5zM568.5 860.1l-.7-5 .8-1.3 .5-.2 3.4 2.8 .2 .8 -.2 .6 -3.9 2.5zM498.7 851.6l3.7 2 2.4-2.6 -2.6-2.9 -3.4 3.2zM492.6 860.3l-.3 1.8 3.5 .5 1.4-2 -2.7-1.6 0-1.6 -2-2.4 -2.4 .9 -.3 .5 0 .9zM521.2 867.7l-4.2 1.4 -.2 .4 2.8 3.4 1.1-1zM485.7 874l.7 .1 4.2-2.1 -1.6-4.4 -2.3 1.2zM475.9 882.2l2.7 .1 1.4-2.3 -4-2.3zM491.4 882.3l-3.7 1.7 -.9 1.4 -1.4 .5 -1.1 3.3 .7 .7 4.2-.2 1.7-1.3 .4 0 .2 .1 5.6-.4 -.2-.7 -4-3.5 -.3-.1zM495.1 894.9l5.3-2.9 -.5-3.3 -2.3-.3 -3.6 5 .4 1.1zM485.7 909.8l-2.1 2.5 4.6 2.3 1.3-.5 1-3.4 -.3-.3 -3.9-.6zM498.7 914.5l1.6-2.8 -1.4-.9 -3.4 2.7zM502.9 917.8l-.5 .1 -2.9 5.2 0 .1 .8 .2 4.8-1.9 -1.5-2.8zM517.2 922l.4 3.7 -4.4 .5 .9 3.6 2.2 .7 2-3.7 -.1-.4 4.2-1.3 -.3-3.8 -.2-.3 -3.2 .2zM497.8 941.7l-.4-.1 -.2 .1 -3.3 2.6 1.7 1.7 3 1 .2-1.1zM503.5 946.4l-4.9 .6 -.2 3.7 1.7 .7 .7-.1 3.1-3.6zM492.2 955.9l-1-.6 -1.6 .6 -1.9 2.5 .2 .4 3.7 2.4 .6-1.9z"/>
<path fill="none" stroke="#fff" stroke-opacity=".7" stroke-width=".5" d="M592.8 915.8l1.5-.3 2.2-4.7 -.1-.2 -.5-.4 -.8-4.4 -4.9 .7 .1 1.3 2.6 2.3 3 .1M592.8 915.8l-1.8-.6 -.3-1.7 2.2-3.4M592.8 915.8l0 3.8 -3.7 .1 -.8-2.5 2.7-2M509.9 961.6l1.9-1 3.5 2.4 .1 .1 -3.4 2.2M509.9 961.6l1.6 3.6M509.9 961.6l-2-.5 -1.5 .8 -.2 .4 -5.6 1.6M460.3 918.3l2.4 .4 .6 2.4 -1.5 2.3M458.7 914.3l.9-1 .5-4.5 -.1-.3 -3.5-.4M472.3 869.1l-3.2 1.7 1.2 2.6 2.2-.4 -.2-3.9 .5-1.5 3.3-.4 -2 6.6 -1.6-.8M548.8 893.2l3.3 3.1 -.7 2.7 -3.8-1.9 1.2-3.9 0-.1 .4-1.2 4.6 1.1 .1 .5 -1.2 2.2 -.6 .6M562.1 901.2l.5-.9 4.5 .2 .6 1.6 -.1 .6 -4.7 .8 -.8-2.3 -4.1 0 -.5 2.3 3.7 1.9 1.5-1.1 2.8 3.1 -.5 1.2 1.1 2.1 2.1 1.2 1.6-2.9 .1-2.7 -1.2-.5 -3.2 1.6M523.6 955.1l-3.7 1.2 -1-4.1 -1.2-.4 -2.9 2 -.2 .7 4.9 2.5 .4-.7M523.6 955.1l.3-1.8 3.9 .1 1.5-2.7 -4-.6 -2.1 1.5 -1-.5 -.3-1.3 2.6-4.3 0-.1 -3.9-1.4 -.4 .1 -.3 3.3 2 2.4M523.6 955.1l1.3 2.2 -.5 2.3 5 1.8 .3-1.8 -2.7-2.8 -2.1 .5M591.9 924.4l-2.9-4.1 .1-.6M591.9 924.4l-3.9 .4 -.1 0 -.5-3.3 1.6-1.2M591.9 924.4l.2 0 .2 2.5 -.4 1 -2.4 2 -3.3-.7 -.6 .2 -.7 1.3 2.2 5.3 4.1-2.4 -1.7-3.7M592.8 919.6l1 1.2 2.4-1 .5-2.1 -.5-.8 -1.9-1.4M562.9 903.5l-.2 .8M596.4 910.6l2.3-1.6 .6-3.6 -.8-1.9 -.7-.4 -.7-2.1 -3.1-.7 -2.7 2.2 -.6 .2 -1.7-2.1 2.7-3 1.5 1 .8 1.7M596.5 910.8l2.7 2.6 -3 3.5M597.1 901l1.4-2.8 -2-3.2 -3.3 3.6M595.6 904.8l-4.3-2.3M595.6 904.8l-.5 1M595.6 904.8l2.2-1.7M589.9 905.8l0-.7 -5.7-2.5 -.9 .8 -.1 .8 .4 .7 3 1.4 3.3-.5 .3 .7M589.9 905.1l.8-2.4M584.2 902.6l1.3-2.9 .8-.2 2.6-4.9 -.2-.6 -5.4 2.8 1.2 1.9 1 1M584 910.8l-.4-5.9M584 910.8l1.3 .5 .6-.2 .7-4.8M584 910.8l-1.6 .3 -1.5 .1 -.8 5.5 -3.5-3.1 4.2-2.5 .1 .1M582.4 911.1l.4 5.6 -2.4 1.3 -.3-1.3M583.3 903.4l-4.3-2.6 -.2-.4 .2-.7 .3-2.9 -4.7-.8 -1.7 2.4 .1 .4 3.1 2.1 2.7-.5M583.2 904.2l-3.8 2.1 1.1 4.5 -5.2-1.2 1.7-3.6 1.3 0 1.1 .3M573 898.8l-1 1.8 -4.3 1.5M570.6 889.4l2.3 1.5 -2.2 2.5 2 4.9 .2 .1M570.6 889.4l-.3-2.8 4.1-.7 1.5 .6 2.2-2.3 -2.1-3.1 -4.8 1.1 3.2 3.7M570.6 889.4l-2.7 .7 -1.1 1.3 -4.1-3.4 .4-.6 3-.6 1.8 3.3M570.3 886.6l-1.1-2.1 .6-1.8 -3-2 -.8 .5 -1.3 2.3 2.5 1.9 2-.9M579.3 896.8l1-1.1 2.5 .4 1.8-2.8 -3.7-1.7 -1.3 1.4 .7 2.7M579 899.7l5.5-1M505.1 957.1l.6 4.1 -3.1-2.4 2.5-1.7 1.9-1.9 1.3 0 0 0 .7-3.7 0-.2 -3.5-1.6 -1.7 3 .7 1.5 2.5 1M507.9 961.1l.4-5.9M502.6 958.8l-2.5-.5 -.5 .4 -4.2-1.3 -2.1 4.8M506.4 961.9l-.7-.7M462.7 918.7l2.9-1.9 .3 .4 5.6 3 -.1 .1 -.7 .5 -3 0 -1.8-3.6M469.2 899.6l2.1-.2 1.4 1.7 4 1.3 1.1-.6 -1.1-3.8 -4.4 .1 -1 1.3M469.2 899.6l-.4-.7 1.4-5.2 -1.4-1.6 1.1-1.2 4.3 1.2 .3 1.9 -2 1.4 -2.3-1.7M469.2 899.6l-.2 .2 -5.8-.1 .8 3.7 2.9 1.1 .6-.5 1.5-4.2M474.5 891.6l.1-1.7 2.6-1.3 -.1-2.2 2.7-1 2.7 4.1 -2.2 1.8 -.6 .4 -.4-.3 -2.1-2.8M474.5 891.6l4.8-.2M474.5 891.6l-.3 .5M458.2 889.3l1 .3 1.6 2.7 3.5 .3 -.8-3.6 -2-.9 -2.3 1.5M455.7 903.3l1.7-.4 .8-3.6 2.6 1.4 -1.6 2.6 -1.8-.4M584.9 930.7l-1.8 .9 -4.7-3.5 .5 4.3 2.9 .6 1.3-1.4M480.1 884.9l2.6-1.5 -2.3-3.4 -.4 .1 -1.4 2.1 -2.7-.1 .1-4.3 4 2.3M480.1 884.9l-1.5-2.7M480.1 884.9l-.3 .5M471.4 880.4l-1 3.4 -2.4-.5 -1.9 2.8 -2.9-1.5 -1.5 .4 -.2 3.1M471.4 880.4l.7-.4 1.2-2 2.3-1.1 .4 .9M471.4 880.4l-2.9-.9 1.1-2.8 3.7 1.3M522.5 929.5l1.6-3 1.5 .9 3.1-2.2 2.4 3.3 0 .1 -2.8 1.5 -.3-.1 -2.4-2.6M522.5 929.5l3.5 1 2-.5M522.5 929.5l-.7 .7 -.3 1.7 -4.4 .6 -.8-2.1 -2.2-.6 -.8-3.6 4.3-.5 .6 .7 0 .4 -1.9 3.6M522.4 939.9l.1 .1 -1.9 4M522.4 939.9l-3-.9 .5 5 .3 .1M522.4 939.9l.4-3.3 3.6-.4 -.4-2.5 -2.5-1.1 -1.6-.1 .1 3.3 .8 .8M535.3 905.4l1.9 2.6 3.8-1.8 -3-2.9 1.8-1.1 3.1 2 .4 2.6 -2.3-.6M535.3 905.4l0-.2 1.5-1.8 -1.2-4.3 -2.9 3 2.6 3.1M535.3 905.4l-1.3 .6 -1.1 0 -2.8 1.6 -2.1-2.3 2.1-3.1 2.8 3.8M537.1 931l3.1-1.7 .8 2.1 -3.6 2.6 -.3-3 -3-.7 4-4.8 -.2-.2 -4.8 0 -.8-2.7 2.2-2.3 2.1 .6 1.3 4.4M540.2 929.3l.1-.4 -.5-2.8 -1.7-.6M527.8 922.3l.9 2.9M527.8 922.3l-.3 .1 -5.5-1.1 .3 3.8 1.7 1.1 3.5-3.8M527.8 922.3l.1-.1 1.3-.4 3.1 .8M524.1 926.5l-.1-.3M533.1 925.3l-2 3.2M534.1 930.3l-.7 .1 -2.3-1.8M533.4 930.4l0 3.4 .4 .6 3.1 1.7 .5-2.1M552.4 918.5l-2.5-1.6 -1.8 1.8 .1 2.8 2.9-.1 1.3-2.9 .8-.7 .5-1.1 -3.8-3.4 -.9-.2 2.4-4.6 2.4 1.5 1 2 -4.9 1.3M534.5 920.3l-.9-2.1 3.7-2.6 1.8 3.4 -2.5 1.9M533.6 918.2l-1.8-1.4 .5-2.6 -1.6-2.7 -1.1-.6 -.9 5.7 2.7 .4 .4-.2M575.3 935.9l-.8-.3 -4 1.3 -1-4 3.5-1.4 1.5 4.1M575.3 935.9l1-4.1 -1.2-1.5 -1.7 .4 -.4 .8M575.3 935.9l1.1 .6 .4-.1 1.9-3.8 -2.4-.8M570.5 936.9l-.1 .2 -2 .8 -3.6-4.2 3.4-1.7 1.3 .9M569.3 943.7l-1.8-4.7 -3.6 .7 -.7 1.2 2.8 2.9 2.3 .2 1-.3 1 .4 .2 0 .3-6.3 -.4-.7M570.8 937.8l3.5 3.9 2.1-1.2 0-4M547.6 897.1l-3.3 .4 1.7-3.9 -2.6-2.6 -1.9 3.4 -.2 .9 2.5 2.6 .5-.4M550.7 901.1l-5.2-.5 1.3 5.9 1.5-.3 2.4-5.1 .4-.3 2.6 4.8 -2.5 2.3 -2.9-1.7M543.7 898.9l.5 .9 -1.3 4.4M543.7 898.9l-2.8 1.2 -1.1 2.1M543.7 898.9l.1-1M539.8 889.1l3.5 1.6 .5-.5 1.3-4 -2.2-1.7 -2.5 2.9 -.6 1.7 -1.1 .3 .2 1.6 2.6 3.4M480.5 897.8l2.4-1 .1-.8 -3.6-2.8 -1.7 1.9 0 .8 2.8 1.9 -.3 2.3 -2.4 1.7 2.7 2.4 3-2.4 -1.6-1.6 -1.7-.1M482.9 896.8l.4 .9 -1.4 2.5M483 896l1.2-.8 .6-.9 -4.5-3M479.4 893.2l.3-1.5M488.7 867.7l-3.3-1.7 -2.8 1.3 2 1.7 2.2-.2 1.9-1.1 .2 0 1.7 4.2 -.1 .1 -4.2 2.1 2.6 3.8 2.6-1.7 -1-4.2M553.9 893.5l3.9 .8 .4-2.2 2.7-2 2.5 3.9 -.1 .2 -4.5 1.8 -.3 0 -.7-1.7M553.8 893l.6-3.2 -1-1.1 -3.6 .4 -1.8-3.1 .8-1.6 2.9-.5 1.7 4.8 0 0M562.6 900.3l0-.5 1.8-3.2 3.3 .9 -.6 3M550.2 878.6l4 2.6 .4 .4 -2.9 2.3M550.2 878.6l-2 4 .6 1.8M550.2 878.6l-.5-1.2 3.8-2.4 1.4 1.3 1.1 .1 3.1 .9 .2 .4 2.2 .7 .6 2.4 -.3 1.6 0 1 -4.1 1.4 -1.1-.5 -1.2-2.4 1.3-1.1 5.1 1.6M586.8 866.9l-.2-.3 -1.4-.5 -1.4-3.2 1.3-1 1-1.5 -4.4-1.1 -.6 3.3 2.7 .3M586.8 866.9l4.2-1.5M586.8 866.9l.2 1.9 -2.2 2.4 1.8 2.7 3.6-2.4 -.9-1.6 -2.3-1.1M544.7 879.2l-4.2-1.7 -.1-.1 .5-2 3.5-.1 2.4 1.9 -2.1 2 0 1.9 -2.1 2.5 -2.9-1.4 .8-4.7M540.4 887.4l-2.6-3.9 1.1-1 .8-.3M517.4 882.3l2.3-3.2 -.1-.4 -4.7-1.5 1.8 4.8 .7 .3 .8 1.8 4.3 .4 -.4-4.4 -2.4-1M529.5 881l-.4-.8 .7-3.6 0-1.4 -4.9 2.8 0 .7 4.2 1.5M529.5 881l-4.1 3.1 -.7-5.2 .2-.2M529.5 881l1.1 .7 2.9-1.3 .6-.8 -4.3-3M540.9 875.4l-.3-1.2 1.2-3.1 -2.3-1.8 -1 0 -.7 .7 -1.6 3.2 4.4 1M529.9 874.9l-1.8-1.5 -2.6-.5 -.7 .6 -1 2.2 1.1 2.3M529.9 874.9l-.1 .3M529.9 874.9l3.5-1.2 -.2-1.7 -1.9-4 .2-1.2 1-.6 2.2 .4 .7 3.1 -2.2 2.3M488.8 879.1l.1-1.2M488.8 879.1l-2.9 1.1 -.6-.1 -2.4 3.3 2.6 2.5 1.3-.5 .9-1.4 -1.8-3.8M488.8 879.1l2.6 2.6 3.6-3.8 0-.2 -3.5-1.5M508.2 892.1l-.6 2.9 1.6 1.7 -.8 2.4 -.1 0 -2.9 .7 -1.9-4.4 .4-1.6 .7-.4 3 1.6M508.2 892.1l-1.8-2.3 -1.8 3.6M508.2 892.1l3.1 1 -1.4 3 -.7 .6M483.3 897.7l2.9 2.4 -.9 1.7 -1.8 0M522.2 951.1l-3.3 1.1M524.5 945.5l1.1 1 -.3 3.6M523.9 953.3l-.7-1.7M527.8 953.4l.6 1.6 -1.4 1.8M517.4 966.6l-1.7-3.2 -.3-.3M511.8 960.6l.6-1.3 2.4-1 1.8 1.2 -1.3 3.5M568 923.3l1 .1 2.5-.6 .9-1.5 -.9-2.1 -4.3 .8 -.3 .9 1.1 2.4 -2.8 2.9 0 .7 2.9 1.8 1.8-1.4 2.4-.4 .8 3.4 -4.9-1.3 -.1-.3M587.4 921.5l-3.3-.2 1.1-1.9 2.8-2.3 .3 .1M561.2 905.4l-.6 1.2 3.8 2.1 -2.2 1.2 -3.1-1.4 1.5-1.9M563.4 913.2l-1.2-.7 0-2.6M563.4 913.2l2.7-2.5M563.4 913.2l.6 1.2 3.8 .9 -1.1 2.2 -3.9 .6 -.7-.7 1.9-3M564.4 908.7l.6-.1M598.5 898.2l.5-.1M596.5 895l-.1-.5 -5 2.3 .3 .8M590.3 907.8l-3.4 3.1 3.8 2.6M586.9 910.9l-1 .2M585.3 911.3l.4 4 2.3 1.8M600 913.7l-.8-.3M574.6 910l-2.3-2.7 3.6-2.2 -.3-.7 -3.5-.5 -2 2.3 2.2 1.1M574.6 910l-.7 1.6 -4.1-2.6M574.6 910l.7-.4M573.9 911.6l-.1 1 -2.6 2.3 .6 1.6 4.7 1.3 -.3-4.2 -2.4-1M572 900.6l.1 3.3M567.6 902.7l1.1 3.1M576.1 900.9l-.5 3.5M579 900.8l-.7 5.2M572.9 890.9l.8 .1 1.1 1.6 -.2 3.4M570.7 893.4l-2 .9 -.2 2.9 4.2 1.1M578.6 884.2l1.6 .6 1.9-.4 1.6-3.4 -3-1 -2.1 4.2 -.5 0M575.5 888.6l-1.8 2.4M575.5 888.6l.4-2.1M575.5 888.6l2.3 .8 1.8 3.6 -4.8-.4M576 881.1l.4-3.1 3.8 .3 .5 1.7M571.2 882.2l-.3-.1 -1.1 .6M586.3 899.5l2.7 1.1M588.7 894l-.5-1.4 3-1.9 .1-3.6 -3.4 .3 -1.5 2.6 .8 1.9 1 .7M588.9 894.6l1.2 .6 1.3 1.6M583.3 896.8l-.5-.7M590.1 895.2l5.6-2.2 .7 .5 0 1M591.1 882.8l.8-1.6 -.1-4.1 -3.1 1.4 -2.5-2.3 -1.8 1.1 .1 3 3 1.5 1-.1 1.5 .9 -2.4 3.6 -2.1-1.4 2-3M591.1 882.8l-1.1-.2M591.1 882.8l.8 .9 3.1 0 1.5 2.1 4.3-.5M591.9 883.7l-.3 3 4 1.7 .9-2.6M500.1 958.3l.1-1.1 -4.1-4.1 .1-1.6 2.2-.9 1.7 .8 .3 5.5 -.2 .3M463.3 921.1l2.9 2.1 .1 .5 -3.1 2M460 908.5l.2-.3 -.4-4.3 -.6-.6M468.8 898.9l-3.3-4.2 .2-1 -1.4-1.1M465.5 894.7l-2.9 2.8 -4.1-1.4 2.3-3.8M465.7 893.7l2.3-1.4 -2.3-4.9 -2.2 1.6M463.2 884.6l1.1-3 .4-.2 2.6 .6 .9-2.3 -1.2-.9 -2.1-.6 -.2 3.2M461.7 885l-3.3-2.1M456.3 896l1.3 .3 .9-.2M587.1 936l-.1 .1 .1 .4 -5.2 3 -.5-3 .4-.4 5.2 0M591.2 933.6l.4 .2M592.1 924.4l.9-.7 .8-2.9M579.6 951.5l-1-3.3 4.9 .3M583.4 945.8l-.8-.9 .2-3.7 4.7-.4M578.6 948.2l-.9-.8 4.1-2.4 -3.4-1.8 -1 4.1 .3 .1M557.6 939.5l5.5 1.4 .1 0M557.6 939.5l.6-2.7 .4-.1 4.5 .4 1.1-3.5 -1.5-1.3 -.7 0 -3.4 4.4M557.6 939.5l-.5 .5 0 3.5 -.6 1 -1 .3 -2.8-1.9 .3-3.6 0 0 4.1 .7M474.5 884.8l2.6 1.6M474.5 884.8l.4-1.3 -2.8-3.5M474.5 884.8l-.6 .2 .4 4.7 -3.7-.9 0-.4 1.6-3.1 1.7-.3M474.6 889.9l-.3-.2M487.7 884l3.7-1.7 1.1 1.6 -1.2 4.4 -.4 0 -4.1-2.9M468 883.3l-.7-1.3M466.1 886.1l0 .3 -.4 1M470.4 883.8l1.8 1.5M474.9 883.5l1-1.4M465.6 862.4l4 .3 .6 1.6 3.7-1.9 .6-2.4 -4.8-.3 -.1 3M465.2 862.8l.9 3.8 -3.1 .7 -2.6-.9M467.2 867.1l-1.1-.5M467.2 867.1l.1 2.4 -2.6 3.8 -1.4-1.1 -.3-4.9M467.2 867.1l2.7-1.2 2.9 1.7M475.6 876.9l.3-1.3 -1.8-1.8M464.3 881.6l-3.3-1.5M588.7 878.5l-.2 3.2M586.2 876.2l.5-1 4.4 0 .4-2.8 -1.3-.9M586.7 875.2l-.1-1.3M518.6 905.6l-2.7-1.1 -2 5.7 -1.2-.1 -1-3.8 3.2-2.3 1 .5M518.6 905.6l0 1.5 -3.7 3.3 4.5 2.6 1.2-2.8 -.1-.8 -1.9-2.3M518.6 905.6l1.4-1.3 2.4 .5 2.8-1.1 1.4 1.4 -1.6 3.1 -1.1-.3 -1.5-3.1M503.3 902.1l.2 .6 -.7 4 3.1 1.2 0-3.2 -2.4-2M503.3 902.1l-.1-.4 2.2-1.9M503.3 902.1l-4.6 3.7 .5 .8 2.7 1.3 .9-1.2M498.7 905.8l-2.5-.8 4.6-4.6 2.4 1.3M514.9 904l0 0M514.9 904l-3.6-3.4 -.9-.1 -.1 5.2 1.4 .6M514.9 904l1.3-4.4 -1-1.3 -3.9 2.3M506.6 909.6l-.7-1.7M506.6 909.6l3.5-3.8 -1.9-1 -2.3-.1M506.6 909.6l0 0 -3.3 1.6 -.8 0 -.6-3.3M506.5 933.7l.8-4.5 1.6-1.1 2.2 3.1 -.1 .9 2 1.1 .7 3.3 2.9 1 .3-.5 .1-4.2 -4 .4M506.5 933.7l3.2 .2 1.3-1.8M506.5 933.7l-1.2 .5 -1.5-.6 -.9 .4 -2.3 3.1 2.5 2.9 .5 .1 1.8 1.5 2.7-1.7 0-1.9 -2.6-2.6 -1.9 4.7M511.1 931.2l3-1.4M546.3 940.4l2.8 1.7 3.1-2.8 -3.4-2 -2.5 1.5 0 1.6 -1.8 2.2 -3.2-4 -1.4 4.2 0 0 2.1 1 2-.2 .5-1M549.5 943.3l-3.7 2.7 -1.8-2.4M549.5 943.3l-.4-1.2M549.5 943.3l1.1 .8 .5 2.8 -.8 .8 -1.8 .8 0 3.6 -2.1 .5 -.4 4.2 .9-.1 2.1-4.2 -.5-.4M543.9 952.1l-1.6 3 1.9 1.9 -2.8 3.8 -2.5-5.3 3.4-.4M543.9 952.1l2.5 .5M543.9 952.1l-.9-2.1 -3.9 1.8 -.1-3.9 1.9-.1 2.2 1.9 -.1 .3M553.3 936.8l-2.5-1.8 1.3-2.1 -.6-2.2 -.7-.2 -3 3.2 1.3 2.2 1.7-.9M553.3 936.8l1.3-2.1 1.7-.3 .6-1.8 -3.9-2.6 -1.5 .7M553.3 936.8l-.3 2.5M552.2 939.3l.8 0M544.1 937l-.2-3.2 -1.8-.8 -4.2 3.6 3.4 1.7 2.8-1.3 2.2 1.8M548.8 937.3l.3-1.4M543.9 933.8l1.2-.8 .6-2.2 3.5-2 -.2-.9 -.3-.4 -2.7-2.4 -1.6 4.1 1.3 1.6M551.1 921.4l.7 .9 2 1.6 1.8 0 1.6 1 0 3.1 -3.7 1.4 -.3-4.1 .6-1.4M565.2 926.2l-1.8-2.2 .5-3 -.7-.8 -2.1 1 .1 2.7 2.2 .1M565.2 926.9l-1.6 1.3 -.9 4.1M519.4 939l-2.8-1.4 -.9 3 2.9 3.2 -1.6 1.4 -3.3 .8 -.2-4.4 2.2-1M516.6 937.6l0-.1M509.7 933.9l.4 1.6 1.7 1.2 1.9-.2M521.5 931.9l.4 .6M521.8 930.2l-3.6-3.4M517.1 932.5l-.1 .3M511.6 925.4l1.7 .8M511.6 925.4l2.6-3.9 1.5-.4 -.1-1.8 2-2.7 1.2 1.4 -.1 3.2 -1.4 .8 -1.6-.9M511.6 925.4l-2 .3 -1.7-3.3 1.4-2.3 2.1-.3 2.8 1.7M515.4 914.9l2.1 .4 1.9-1.5 0-.8M515.4 914.9l-.7-4.5 .2 0M515.4 914.9l-2.2 1.1 -3.3-2.2 .2-1.4 2.6-2.3M514.7 910.4l-.8-.2M519.4 913.8l3 1.8 -.4 1.7 -3.2 .7M517.5 915.3l.1 1.3M522.5 940l4 1 .2 1 -2.2 3.4M526 930.5l-2.5 2.1M534 906l-.3 4.2 2.7 .8 1-2.2 3.9 1.2 -.1 1.4 .7 1.2 4.3-2.1 -.7-3.2 1.3-.8M542.1 933l-1.1-1.6M536.9 936.1l.2 .4 .8 .1M528.3 930.1l0 .6 1.5 3.9 3.6-.8M522 921.3l-.2-.3 .5-1.4 4.3-.8 1.3 3.4M522.3 925.1l-4.1 1.3M529.2 921.8l2.2-4.8M549.9 916.9l-2.2-3 -1.3 1 0 .1 1.7 3.7M539.1 919l1.4 .1 .9 2.3 5.2 .8 .1-.1 -1.8-3.1 -3.5-.5 -.9 .6M537.3 915.6l.1-.7 4.8-.6 .2 .3 4 .3M573.4 930.7l-.3-.4M568.2 932l0-3M567.5 939l.9-1.1M563.9 939.7l-.8-2.6M564.8 933.7l-.6-.1M557.8 896.9l-.9 2.9 -4.7 .3 -.5-.1 -.3-1M557.8 896.9l-5.1-1.2M557.8 896.9l.7-.9M545.5 907.3l-2-.3 -2.2 3M545.5 900.6l-1.3-.8M530.9 901.8l1.8 .3M530.9 901.8l-.8 .2 0 .2M530.9 901.8l2.9-3.6 1.7 .4 0 .1 .1 .4M540.9 900.1l-2.6-1.3 -2.8-.1M536.8 903.4l1.2-.1M538.7 889.4l-1.8-.3 .3-5.3 -1.5-.2 -2.5 1.9 .5 3.8 .6 .4 .2 .1 2.4-.7M484.8 894.3l1.1-1.1 -.9-3.3 -.7-.7 1.2-3.3M484.2 895.2l3.6 3.2 .8-3 3.9 .9 -.6 1.9 -2.5 1.4 -1.5-.6 -.1-.6M484.3 889.2l-1.8 .3M490.9 888.3l-1.7 1.4 -4.2 .2M485.4 866l.2-2.4 3.8-.4 1 .8 1.9-1.9 3.5 .5 1.3-2 .6-.2 3 1.2 0 .2 -4.4 3.5 -.5-2.7M561.1 889.2l1.6-1.2M561.1 889.2l-1.9-1.3 -1.5-3.1M561.1 889.2l-.2 .9M556.7 906.7l-2.9 3.3M556.7 906.7l2.4 1.8 0 0M556.7 906.7l-.5-1.1 .3-.8 -2.2-2.2 -.3 3 2.2 0M551.2 907.9l.2 .6M580.2 863.2l-.9 2 -4.5-3.6 -2.5 2.7 6.9 1 .1-.1M580.2 863.2l.9-.6M580.2 863.2l-3.1-3.4 -1.9 .7 -2.6-2.7 .2-.6 4-.9 .7 2.7 -.4 .8M568.6 860.3l4-2.5M568.6 860.3l.8 2.5 .4 .3 2.4 1.3 .4 2.5 -.3 1 2.5 2.7 -1.1 2 -1.4 .6 -.5-4.9 .5-.4M568.6 860.3l-.2-.1 -.7-5.1 .9-1.3 .5-.2 3.5 2.8 .2 .8M572.6 856.4l2.2-4.6 1 .1 .5-.3M571.1 877.7l-.2 4.4M571.1 877.7l5.2 0 .1 .3M571.1 877.7l-.4-.5 -4.3 .9 -1.6-1.6 .3-2 1.9-1.4 1.7-.3 1.9 1.2 .1 3.2M572 873.4l.3-.2M572 873.4l4.3 4.2 1-2.9 -3.6-2.1M572 873.4l-1.4 .6M572.2 864.4l.1-.1M569.5 869.4l2.3-1.1M569.5 869.4l-1-.8 1.3-5.5M569.5 869.4l-.8 3.4M556.9 867.8l2.3-1.5 2.7 3.4 -.3 2.2 -.1 0 -2.4 4.7 -1.6-2.8 -.7-.4 -.8-.8 1.2-1.6 3.5 1 -3.2 1.8M556.9 867.8l.3 3.2M556.9 867.8l-2.7-.1 -.2 5.3 -.1 .1 -3.7-1.9 .5-1.9 2.7-2 .8 .4M559.2 866.3l.1-.5 3.6-1 2.8 1.2 .1 1.6 -.6 .8 -3.3 1.3M587.8 859.2l-1.7 1.2M582.8 854.9l-.5 .4 -5.1 .3 -1.4-3.7M589.8 861.2l-2.6 3.1 -2.1-2.4M585.2 866.1l-3.2 1.1 -2.7-1.4 -.1-.5M587.2 864.3l-.6 2.3M574.8 851.8l-2.9-1.9 1.2-1.2 3.6-1.7M577.2 855.6l-.4 .7M581.4 858.1l.9-2.8M581.4 858.1l.3 1.2M581.4 858.1l-3.9 .9M573.1 848.7l2.6-5.8M571.9 849.9l-.3 0 -1.5-1.7 1.6-4.4M531.1 884l-.5-2.3M531.1 884l-3.2 3.4 -3-2.3 .5-1M531.1 884l2.1 1.5M516.7 882l-.2 .1 -4-2.1 .9-1.7 1.2-1.5 .3 .4M522.1 880.1l2.6-1.2M532.2 854.7l.1 3.3 -1.9 1.4 -2.5 0 0 0 1.2-3.6 1.1-1.4 2 .3 2.8-2.1 .8 5.9 -.1 .1 -3.4-.6M544.4 875.3l.4-2.3 -.8-1.1 -1.7-1 -.5 .2M546.8 877.2l1.8-.5 -.3-2.7 -3.5-1M540.4 877.4l-2.6 .1 -2.5-.4 -.9 2.1 2.9 1.7 .5-3.4M545.2 957.3l1.2 3.8 1.1 .2 2 3.1 .4 1.9 -.4 .9 .2 .6M545.2 957.3l-1-.3M545.2 957.3l.8-.5M536.7 960l1.8-4.6 -2.1-.3 -2.4-.8 1.9-4.2 2.7 2.3 -.1 3 0 0M536.7 960l3.2 2.5 1.4-1.5 .1-.2M536.7 960l-1.4 .4 -.5 0 -.8-1.6 -2.5-1.9 .1-.7 1.4-1.9 1 0M549.5 964.4l2-3 -1.2-2.1 -2.8 2M546.4 961.1l-1 .8 -.7 4 .2 .4 4.6 .9M554.4 970l1-5.2 -1.4-.7 -4.1 2.2M495.1 894.8l5.2-2.9 -.5-3.2 -2.2-.3 -3.6 5 .5 1.1 .6 .3 1.6 2 3.2-1.2 .7-3.4 -.3-.3M497.6 888.4l-.5-.4 -5.6 .5 1.7 4.3 .8 .6M513.4 878.3l-3.8-.9 -1.1 2.6 1.1 1.9 2.9-1.9M500.6 892.2l3.3 1.6M499.8 888.7l.5-.4 .1-1.4 2.6-3.2 .4-1.2 -.7-1.1 -3.5 .6 1.2 4.9M506.4 889.8l.2-1.5 -2.3-.3 -4 .3M480.4 880l2.2-2.5 -5.1-2.7 -1.6 .8M485.3 880.1l-2-2.7 -.7 .1M482.7 883.4l.2 0M486.3 874.1l-.5-.1 1-5.2M488.9 867.7l1.7-2.6 4.3 1.8 -3.6 5 -.7 0M485.3 901.8l.7 2.3 -2.8 2.5 -2-.1 -.7-2.3M486.2 900.1l1.7-1.1M490.4 901.5l-1-1.9M490.4 901.5l3.7 2.2 .1-.1 .9-2.6 -3.2-2.8M490.4 901.5l-2.6 3.2 2.5 1.9 -.1 3.9 -4-.7 1-5.2 .6 .1M516.8 949.2l.2 .1 2.9-1.9M516.8 949.2l.2-4M516.8 949.2l-1.6-.5 -1.6-2.6 .1-.1M517 949.3l.7 2.5M519.9 944l-1.3-.2M525.6 946.5l1.9 .4 2.5 3.4 .8-.1 2.9-2.8 -2.5-3.3 -1 0 -2.7 2.8M529.3 950.7l.7-.4M515.7 963.4l5.6-1.4 .7 3.6M512.4 959.3l-2.2-3.7 4.2-1 .4 3.7M543.3 968.9l1.6-2.6M598.5 903.5l4.3-1.2M575.1 930.3l3-2.9 .3 .7M578.1 927.4l0-.3 2.1-1.2 1.6-4.5 -.1-.1 -5.7 1.2 .7 3.4 1.4 1.2M581.8 933l0 3.1M576.8 936.4l4.6 .1M578.7 932.6l.2-.2M566.9 920.9l-3 .1M569 923.4l.9 3.9M572.8 926.1l-1.3-3.3M572.8 926.1l-.5 .8M572.8 926.1l3.9-.2M572.4 921.3l2.8 .2 1.9-3.1 -.6-.6M553.2 917.8l3.5 2.3 1.8-.9 .5-1.1 2.1-.9 -1.2-3.9 -2.5-.9 -1.3 .6 -.4 1.7 3.3 3.4M553.7 916.7l2-2M549 913.1l-1.2 .5 -1.6-3.1M554.8 912l1.3 1M562.2 912.5l-2.3 .8M559.1 908.5l-1.7 3.9M548.8 893.1l-2.8 .5M549.2 891.9l0-1.7 -5.4 0M549.2 890.2l.6-1.1M543.3 890.7l.1 .3M548.2 882.6l-3.5-1.5M545.1 886.2l2.9-.2M542.9 884.5l-.3-.9M576.6 913.6l-.4 0M580.8 911.1l-.3-.3M577.1 918.4l3.3-.3 0-.1M575.2 921.5l.8 1M569.3 914.4l-1.5 .9M569.3 914.4l-1.1-2.5M569.3 914.4l1.9 .5M567.2 920l-.5-2.5M571.5 919.2l.3-2.7M569.9 906.3l.2-.1M575.9 905.1l1.1 .9M584.4 877.3l-.9-.3 -.4-5.8 0 0 -3.7 1.5 2.8 4.1 1.3 .2M584.5 880.3l-.8 .7M585 889.2l-3.6 .6 -.5-.8 -.7-4.2M585 889.2l-1.3-4 -1.6-.8M585 889.2l1.4 .8M583.7 885.2l1.8-.4M577.8 889.4l3.1-.4M581.4 889.8l-.5 1.8M579.6 893l0 0M584.6 893.3l2.6-1.4M562.5 884l2.2-.5M562.5 884l.6 3.4M562.5 884l-.7-.6M562.1 880.8l3.9 .4M561.5 878.4l3.3-1.9M595.7 893l-.8-1.5 .7-3 0-.1M596.4 893.5l4-1.6M587.6 886.2l.3 1.2M591.6 886.7l-.3 .4M594.9 891.5l-3.7-.8M595.6 888.5l3.9 .4M591.9 881.2l3.4-1.6M591.8 877.1l.2-.3 2.7 0M595 883.7l1.9-2.5M487.8 958.4l1.8-2.5 1.6-.5 .9 .5 .1 3.4 3.2-1.9 -.8-1.1 -2.5-.4M506.2 962.3l.5 3.7M489.6 955.9l-2.5-3.1 3.5-2.2 1.3 .7 -.7 4.1M472.3 898.1l.2-2.7M476.7 898l1-2.1M477.7 895.1l-3.2-1.1M477.8 901.8l0 0M459.6 913.3l3.9-.1 -.4-2.8 -3-1.6M465.6 916.8l1-2.1 5.2 4.4 -.3 1.1M468 892.3l.8-.2M466.1 886.4l4.5 2M457.6 896.3l.6 3M462.6 897.5l.3 1.9 -2.1 1.3M462.9 899.4l.3 .3M587.7 938.5l-.6-2M593 933.4l.9-2.9 -2-2.6M563.1 940.9l-1.6 3.1 .8 2.8 1.6-.2 2.1-2.8M575.4 958.3l-2.9-1.6 -1.2 1.3 .9 3.2M572.5 956.7l-.5-1.4 2.9-3.2 1 .7M470.6 888.8l-.7 2.1M470.3 873.4l-1.5 1.6 .8 1.7M469.1 870.8l-1.8-1.3M468.5 879.5l-.3 .2M467.6 874.9l1.2 .1M467.6 874.9l-.6 3.9M467.6 874.9l-2.6-.7 -1.3 2.1 1.2 1.9M584.8 871.2l-1.7 0M589.3 869.9l3.5-3.2M591.5 872.4l1.9-.8M591.1 875.2l.9 1.6M520 904.3l.3-3 -1.8-1.4 -2.3-.3M513.2 916l0 .1 2.4 3.2M505.3 934.2l.2 1.2M503.8 933.6l-.6-2.6 1.9-1.7 2.2-.1M522.3 911l3.3-1.7 1.8 1.8 -.1 .1 -2.6 2 -.8 1.8 2.9 2.3 1.1-.6 -.6-5.5M522.3 911l2.4 2.2M522.3 911l-1.7-.8M526.7 942l3.5 2.1M526.5 941l1.1-1.8 5 1.2 .1-.1 3.4-1.5 1.7 3 -2 1.6 -3.2-2.8 0-.2M534.7 947.4l-.1 0 1.2-4M534.7 947.4l2.4-.4 2.8-4.2M534.7 947.4l1.2 2.7M533.8 934.4l-1.9 3.1 -2.9-1.5 .8-1.4M533 954.3l-2.2-4.1M534 958.8l2.4-3.7M538.6 952.4l.5-.6M538.5 955.4l.4 .1M545.1 933l2.7 .7M551.8 922.3l-3.1 5.2M556.7 920.1l-1.1 3.8M558.5 919.2l1 1.5 -1 3.8 .9 .1 2.1 3 -3.4 1.6 -.9-1.2M553 930l.5-.6M554.6 934.7l-2.5-1.8M558.1 929.2l.4 1.9 -1.6 1.5M563.6 928.2l-2.1-.6M558.2 936.8l-1.9-2.4M558.5 931.1l3.5 1.2M516.9 937l5.1-1.2M517.6 925.7l-.3-3.7M511.4 919.8l1.8-3.7M520.5 909.4l3.4-1.5M521.8 921l-3.1 .2M522.4 915.6l1.5-.6M526.6 918.8l.2-1.5M522.3 919.6l-.3-2.3M530.1 907.6l-.7 3.2 -2 .3M525.6 909.3l-.6-1.1M529.4 910.8l.2 .1M548.2 921.5l-1.5 .6M546.4 915l-1.5 4M542.4 914.6l-1 3.9M547.8 913.6l-.1 .3M537.4 914.9l-.8-1.5 .2-.9 4.4-1.1M542.2 914.3l-.3-1.7M582.6 944.9l-.8 .1M582.8 941.2l-.9-.7 0-1M581.9 940.5l-3.8 .8 -1.7-.8M551.1 900.8l.6-.8M553.7 905.6l.3 0M543.5 907l-.2-.2M537.2 908l.2 .8M538.9 891l-.7 3.7 2.7 .6 -2.6 3.5M540.9 895.3l.4 0M538.2 894.7l-1.4 .3 -1.3 3.6M485.9 893.2l2.3 .8 .8-.7 .2-3.6M494.5 894.5l-2 1.8M489 893.3l4.2-.5M488.2 894l.4 1.4M481.5 867.5l.5 4.8 2.2 1 .4-4.3M481.5 867.5l.7-.3 .4 .1M481.5 867.5l-2.2-.3 .4 5.6 -1.5 .8 -1.9-6.5 .1-.1 1.2-.4 1.7 .6M482.2 867.2l.9-5.1 -4.5 1.2 -1 3.3M480.7 839.3l1.7 1.2 1.6-.6 -.3-4M566.6 892.1l2.1 2.2M566.6 892.1l.2-.7M566.6 892.1l-3.2 1.9M568.5 897.2l-.8 .3M566.1 886.8l1.1-1.4M554.9 889.9l-.5-.1M554.9 889.9l4.3-2M554.9 889.9l3.3 2.2M553.4 888.7l3.2-4.4M574.8 861.6l.4-1.1M561.5 871.9l-.8 .1M559.1 876.6l0 .7M565.2 868.4l1.8 4.7M561.6 871.9l3.5 2.6M566.8 880.7l-.4-2.6M565.8 867.6l2.7 1M569.4 862.8l-3.1 2.4 -.6 .8M567.7 855.1l-3.4 .2 -1.3 1.1 -2-.3 -1-2.1 1.3-2.1 3 1.2 0 2.2M568.4 860.2l-2.3-.2 -1.3-.6 -2.8 1.6 1.3 2 1.1-.6 1.7-2.4M560 860.9l2 .1M560 860.9l-1.1 3.7 .4 1.2M560 860.9l-1-2.1 -.4 0 -2.5 1.7 -.9 2 3.7 2.1M572.6 866.9l5.4 .9 -.2 2.3 -3 .5M577.8 870.1l1.6 2.6 -2.1 2M582 867.2l1.1 4M579.3 865.8l-1.3 2M571.6 849.9l-2.5 3.7M570.1 848.2l-1.4-.3 0-6.2M568.6 853.8l-3-2.4 -1.3 1.7M555.2 862.5l-3.3 .7 -.2-.2 .6-4.8 .7-.5 3.1 2.8M523.8 875.7l-3.5 .4 -.7 2.6M514.6 876.8l-.2-2.1 .5-.5 4-.1 1.4 2M518.9 874.1l.7-1.2 -2.7-3.4 .1-.4 4.2-1.4 -.5 4.2 -1.1 1M499.5 867.3l.6-.5 1.8-2.8 -1.2-2.2M499.5 867.3l-3.4-.2 0-.1 -1.2-.1M499.5 867.3l1.2 2.8 .8 .6 4.2-1.8 -5.6-2.1M546.5 863.7l.7-.5 .4-.3 4.1 .1M546.5 863.7l-3.7-2.7 -1.3-2.2 -.9-.4 -1.3 .6 -.9 4.5 .1 .3 1.7 .9 2.6-3.7M546.5 863.7l-1 2.2 .1 .4 -.1 .3 -3.2 4.3M551.9 863.2l.2 .9 -3.2 3.7 -3.3-1.5M535.3 877.1l-1.3-3.1 -.6-.3M528.1 873.4l1.1-3.6 -3.2-.6 -.9 .7 .4 3M529.2 869.8l2.1-1.8M526 869.2l1.5-3.7 -3-.5 -.4-2.6 3.7-2.9 .5 4 0 1.8 -.8 .2M533.3 862.8l1.3-.8 1.1-3.4M533.3 862.8l-.9-.9 -2-2.5M533.3 862.8l-.8 3.4M531.5 866.8l-3.2-1.5M534.7 866.6l1.3-.1 2.5 2.8M536 866.5l2.5-2.7M496.7 896.8l.4 2.2 3.7 1.4 .3-3.8 -1.2-1M501.1 896.6l2.4-1.2M497.1 888l-.3-.6 -4-3.5 4.1-1.1 -.1 4.6M491.5 888.5l-.2-.2M509.6 881.9l0 1.6 -1.4 1.4 -.9 2.8 4.2 2.5 1.1-.6 -.9-5.2 -.2-.2 -1.9-.7M516.5 882.1l-5 2.1M509.6 877.4l.3-1.6 -3.8-1.8 .6-1.8 3.8-.1 1.8 2.3 -2.4 1.4M508.5 880l-1.5-.7 -3.8 1 -.5 1.1M495 877.7l1-1.9 -4.7-3.9 0 0M496 875.8l1.3-1.3 -.1-.7 -1.5-2.5 .5-2.2 2.7 2 -1.7 2.7M496.1 867.1l.1 2M491.3 871.9l4.4-.6M510.4 900.5l-2-1.4M508.2 904.8l.1-5.7M510.3 905.7l-.2 .1M480.1 921.5l-3.5 1.7 -.3 2.7 -1.7 .7 -2.8-.6 1.7-3.9 2.1 .3 1 .8M480.1 921.5l-3.2-4.5 -1.1 .5 -2.5 .1 -1.1-2.4 .8-1.8 1.6-1 .8 .3 2.4 2.1 -.3 1.1 -.6 1.1M480.1 921.5l1.9 .2 2-2.7 0 0 3 4.2 -3.4 1.6 -.9-.6 -.7-2.5M521.3 962l.1-1 -2.2-2.2 -2.6 .7M524.4 959.6l1.4 4.5 -1.7 2M524.4 959.6l-3 1.4M524.4 959.6l0 0M510.2 955.6l-1.9-.4M519.2 958.8l.3-1.8M514.4 954.6l.2-.1M545.4 961.9l-4.1-.9M544.7 965.9l-4.4-1.7 -.4 3.4M539.9 962.5l-.1 .9 -3.3 1.5 -.1 3.1M536.5 964.9l0-.1 -1.2-4.4M539.8 963.4l.5 .8M528.4 955l3.2 1.2M531.5 956.9l-1.8 2.7M534.8 960.4l-3.5 2.8 1.3 1 1.7 5M536.5 964.8l-3.9-.6M529.7 962l-3.9 2.1M529.7 962l-.3-.6M529.7 962l1.3 1.2 .3 0M598.7 909l1.2 .1 4.2-1.9M599.3 905.4l4.7 1.6M561.1 917.2l1 .2M596.7 917.7l3-.2M585.7 915.3l-2 1.2 -.9 .2M580.4 918.1l1.3 3.2M583.7 916.5l1.5 2.9M584.1 921.3l-.7 .3 1.4 2.2 3.1 1M586.2 929.2l1.8-4.4M585.6 929.4l-1.5-1.7 .7-3.9M562.8 918.1l.4 2.1M579.4 872.7l0 0M580.2 878.3l2-1.5M576.3 877.7l0-.1M559.3 877.7l-2.6 3.1M554.9 876.3l-.7 4.9M556 876.4l.8-3M554.6 881.6l.8 .3M491.6 961.1l.6-1.8M491.9 951.3l1.6-.6 -1.3-6.5 1.8 .1 1.6 1.7 -1.1 4.8 -1-.1M495.4 957.4l0 0M499.2 961.2l.4-2.5M492.2 944.2l-.3-.1 -1.7 1.1 -1.6 2.4 2 3M494 944.3l3.2-2.6 .2-.1 .4 .2 1 4.1 1.9-2 -.7-2 -2.2-.1M472.7 901.1l-.8 3.5 1.9 2.6 1.1-.4 1.8-4.4M470.6 909.6l-3.8-3.1 -1 1.4 -.1 1.1 1.6 4.3 2.4-1.9 .9-1.8 2.4-1.1 1.6 3.9M460.2 908.2l1.6-.7 4 .4M459.8 903.9l4.1-.4 -2.1 4M466.3 923.7l2.2 2.2 -1.6 3 -1.9 .8M466.2 923.2l1.5-2.4M468.5 925.9l1-.3 1.2-4.8M469.5 925.6l1.6 .5 .7-.1M475.6 922.4l.2-4.9M473.5 922.1l-2.1-1.8M593.9 930.5l4.1-1.2M592.3 926.9l5.6 1.7M568.3 944l-2 3.8 -2.4-1.2M571.3 958l-3.5 1.3 .5 1.8M572 955.3l-1.9-.8 -.5-.9 1.2-3.6 -1.3-1 .8-4.9M574.9 952.1l-.7-1.8 -3.1-.3 -.3 0M574.2 950.3l1.5-2.8 -2.5-3.3 -2.1 5.8M569.5 949l-2.3 .3 -1.1 1.6 1.8 2.3 1.7 .4M570.5 944.1l2.4-.3 1.4-2.1M551.5 961.4l2.2 1.2 .3 1.5M550.3 959.3l.7-1.8 -4.1-.8M559.1 967.5l-2.5-2.7 -1.2 0M468.8 858.6l.9 1.1M468.7 856.2l5.5 .4 .9 2.5 -.2 .5 -.4 .4M463.7 876.3l-1.8 .8M463.3 872.2l-1.9-.2 -2.1-.6M465 874.2l-.3-.9M525.3 901.9l-.1 1.8M525.3 901.9l1-1.4 3.5 1.2 .3 .3M525.3 901.9l-4.1-1.2 -.9 .6M526.3 900.5l-.3-2.4 4.3-.6 -.5 4.2M528 905.3l-1.4-.2M515.2 898.3l-.1-1.1 -5.2-1.1M502.5 911.2l-.4 .3 -1.8 .2 -1.4-.8 -3.3 2.6 3.1 1 1.6-2.8M502.1 911.5l.8 6.2 0 .1 .7 1 5.1-.5 -.3-3 -1.7 .1 -3.8 2.3M499.2 906.6l-.9 3.7 .6 .6M498.3 910.3l-1.8-.4 -2.7 1.9 -2.7-1 4.3-4.3 1.1 3.4M506.6 909.6l3.5 2.8M503.3 911.2l3.4 4.2M509.9 913.8l-1.5 1.5M489.8 923.6l4.3 1.5 -1.6 4.1 -2.2 .3 -.5-.4 -.9-2.6 .9-2.9 -.1-.6 .2-1.2 2.7-1.6 3.5 1.5 -1.5 3.1 -.5 .3M490.3 929.5l0 .4 -.8 5.8 .5 .4 4-1.6 -3.7-4.6M509.9 944.6l2-3.3 1.6 .3M509.9 944.6l1.8 2.1 1.9-.6M509.9 944.6l-2.2 0 -2.2-1.3 -1.7 2.3 -.3 .9 .3 1.2 1.2 1 3.1-1.6 -.4-2.5M511.9 941.3l-1.1-.9 1-3.7M497.3 940.4l.1 1.2M497.3 940.4l1.7-3.4 1.6 .1M497.3 940.4l-2.7-2 -2.4 .7 0 .4 5 2.2M502.9 934l-4.1-1.3 2.3-3.1 2.1 1.4M499 937l-2.4-2.5 -2 3.9M537.1 947l1.9 .9M541.3 938.3l0 .3M537.1 936.5l-1 2.3M534.6 947.4l-.9 0M528.3 930.7l-2.3 3M531.9 937.5l.8 2.8M527.6 939.2l-.2-2.3 1.6-.9M527.4 936.9l-1-.7M545.9 924.9l.1 .2M545.9 924.9l-5.7 .9 -.4 .3M545.9 924.9l.7-2.7M540.3 928.9l4.1 .3M540.2 925.8l1.2-4.4M549.2 928.8l1.6 1.7M549 927.9l4.2-2.6M559.5 920.7l1.6 .5M559.4 924.6l1.8-.7M558.5 924.5l-1.3 .4M533.7 910.2l-3 1.3M536.4 911l.4 1.5M536.6 913.4l-4.3 .8M527.9 916.7l.8-.1M578.1 941.3l.3 1.9M572.9 943.8l.3 .4M575.7 947.5l1.7-.2M556.9 899.8l1.1 1.4M552.2 900.1l2.1 2.5M557.5 903.5l-1 1.3M534.5 892.3l2.3 2.7M534.5 892.3l0-2.5M534.5 892.3l-3.4 3.1 -1.7-1.6 4.9-4.1M533.8 898.2l-2.5-1.5 -.2-1.3M485.8 874l-.8 .1 -1.7 3.3M482 872.3l-2.3 .5M477.5 874.8l.7-1.2M485 874.1l-.8-.8M504 827.7l4.5 .4 .4 1.5 -1.5 1.9 -3.1-.8 -.3-3 0-.1M499.5 827l-.2 3.3 -2.9 1.2 -1.6 2.4 .8 1 5.2-1.6 .3-.3 0-.3 -1.8-2.4M476.1 867.2l.2-.1M469.9 865.9l.3-1.6M562.6 899.8l-3.8-3.8M564.4 896.6l-1.1-2.4M556 872.6l-2 .4M562.9 864.8l.4-1.8M566.3 865.2l-1.9-2.8M564.8 859.4l-1.8-3M547.8 858l-.2 4.9M547.8 858l1.1-.7 3.4 .9M547.8 858l-2.6-1.1 -1.1 .8 3.1 5.5M565.6 851.4l-.5-2.2 -3.2-.7 -.6 3.4M535 852.6l.2-.4 .7 0 1.4 .8 .4 5.6 1.6 .4M541.2 849.7l-.5 4.4 4.2-.7 .2 .3 .1 3.2M541.2 849.7l-1.9-1.3 -3.4 3.8M541.2 849.7l3.3 0 1-1.6 5.2 1.3 0 .4 -2.1 1.8 -3.5 .7 -.6-2.6M514.6 866.1l2.4 3M514.6 866.1l-.7 .5 -1.6 1.6 -.1 .5 2.8 3 1.9-2.2M514.6 866.1l.8-1.8 3.2-.5 .9 .8 1.7 2.6 0 .4 0 .1M519.5 864.6l3.7-2.7 .9 .5M521.2 867.2l3.3-2.2M515 871.7l-.1 2.5M514.4 874.7l-2.1-.3M511.1 869.3l1.1-.6M511.1 869.3l-.6 2.8M511.1 869.3l-4.8-1.3 -.4 .8 .8 3.4M492.3 862.1l.3-1.8 1.8-1.2 2.7 1.5M490.6 865.1l-.2-1.1M496.1 867l.2-1.7M498 856.5l-3.6 .9 0 1.7M498 856.5l-.3 3.9M498 856.5l.1-.2 -.9-3.3 -3.1-.2 -1.6 2.3 1.9 2.3M498.1 856.3l4.9 .7 -.6-3.5 -3.7-1.9 -1.5 1.4M500.7 861.6l2.6-3.5 2.7 3 2.9-.2 -1.1-3.6 -1.9-.8 -2.5 .9 -.1 .7M513.9 866.6l-4.1-2.6 -.6 1 3.1 3.2M501.9 864l2.8 .7 .1 .1 1.6 2.1 -.1 1.1M505.9 868.8l-.2 .1M518.6 863.8l1-5.4 -4.1 .2 -1.5-1.5 1.3-3.8 3.6 3.2 .9 1 -.1 .8 -.1 .1M515.4 864.3l-.7-.8 -4.4-1.5 -.5 2M504.7 864.7l1.3-3.6M532.4 861.9l-4.1 1.6M521.1 858.9l2.1 3M521.1 858.9l5.7-.3 1.1 .8M521.1 858.9l-1.4-.6M526.8 858.6l-1.4-3.3 1.1-1.2 2.6 1.7M527.9 859.4l-.1 .1M530.2 854.4l-.4-.6 -2.6-.7 -.7 1M534.1 879.6l.3-.4M533.5 880.4l2.2 3.2M537.3 880.9l1.6 1.6M537.8 883.5l-.6 .3M524.8 873.5l-4.1-1.6M525.1 869.9l-3.9-2.3M535.4 869.7l2.4 .3M534 874l2.2-.8M560.9 965.4l-.8-2.5 -1-.6 -1.3 1 -1.2 1.5M548.5 948.5l-2.4-1.3 -3 2.5M550.6 953.3l-1.6-.8M550.6 953.3l.7 4 -.3 .2M550.6 953.3l2.7-1.5 -3-4.1M551.3 957.3l2 .2 1.7-6 -1.7 .3M492.6 920.2l-.1-2.6 3.4-.8 -1.1-3.3 0 0 -2.8 3.3 .5 .8M481.2 906.5l-.9 1.1 -2.1 .7 -3.3-1.5M497.1 899l-2 2M500.8 900.4l0 0M496.2 905l-.5 0 -1.5-1.4M495 877.9l2.8 2.7 .4 1 1 .4M492.5 883.9l.3 0M491.4 881.7l0 .6M498.2 881.6l-1.3 1.2M497.8 880.6l2-2.4 .3-3.2 -2.8-.5M500.7 870.1l-1.8 1M501.5 870.7l.4 3.8 3.5 .1 .1 .9 -2.6 3.9 -.3-.4 -.9-4.4 .2-.1M503.4 882.5l4.8 2.4M503 883.7l1.3 4.3M506.6 888.3l.7-.6M468.7 934.5l.7-.9 .6-2.3 -3.1-2.4M471.1 926.1l.5 4.4 .6 .1 2.3-3.5 .9 5 -3.2-1.5M476.3 925.9l1.6 1.2 2.3-.1 2.5-2.8M474.5 927.1l.1-.5M477.9 927.1l-1 5.6 -.9 .1 -.6-.7M480.2 927l1.1 2.4 3.2-.5 -.1-3.2 4.5 .8M515.2 948.7l-2.2 1.8 1.5 3 .3 .3M510.3 949.3l0 .4 2.7 .8M510.3 949.3l1.4-2.6M510.3 949.3l-2.2-2.2M531 963.2l-2 4.9M599.9 909.1l3.1 3M597.6 921.1l-1.4-1.3M593 923.7l4.8 .8M583.4 921.6l-1.6-.2M584.1 927.7l-3.9-1.8M494.6 956.3l1.5-3.2M494.5 950.8l1.7 .7M495.6 946l3 1 .1 .1 -.3 3.5M503.1 940l-3.1 1.9M500.7 951.3l3.1-3.6M500.7 951.3l-.6 .1M500.7 951.3l3.1 1.4M473 908.5l.5-.9 -6.5-2.2 -.2 1.1M463.1 910.4l2.6-1.4M463.5 913.2l3.1 1.5 .3-.3 .4-1.1M469.7 911.4l3.3 2M463.9 903.5l.1-.1M567.9 953.2l-1.1 1 1.5 2.2 1.8-1.9M553.7 962.6l1.2-2.4 2.9 3.1M474.2 856.6l.8-3.3 -2-1.3 -.6-.1M515.2 889.1l.9-1.8 -4.4-2.9M515.2 889.1l-2.6 .5M515.2 889.1l1 2.5 -.7 2.3 -4.1-.8 -.1 0M516.1 887.3l.8-.5 1.3-2.7M518.5 899.9l1.3-4.4 -3.8-.1 -.9 1.8M521.2 900.7l2.2-4.5 -2.2-1.2 -1.4 .5M511.4 893.1l.1-2.9M508.9 928.1l.3-1.7 .4-.7M497.8 917.8l1-.7 3.7 .8 -3 5.2 -2.9-1.6 1.2-3.7 -1.9-1M498.8 917.1l-.1-2.6M495.6 913.5l-.8 0M492.5 929.2l3 1.3 2.4-2.8 -3.3-2.9M510.8 940.4l-2.7-.5M510.1 935.5l-2 2.5M546.1 947.2l-.3-1.2M539.9 942.8l-2.1-1M542 943.8l-1.1 4M532.6 940.6l-1.4 3.5M524.9 885.1l-1 .1 -.5-.1 -.9-.6M527.9 887.4l.7 1.9 5.1 0M528.6 889.3l-.1 0 .8 4.5 .1 0M476.4 867l-2.5-4.6M508.5 828.1l.2-.6 -.3-2.8M482.4 840.5l-.9 4.3 3.7 0 1.2-4.3 -2.4-.6M510.2 830l-1.3-.4M510.2 830l1.9 0 .4-.8 4.2-.5 .6 .4 -2.2 4.4 -.7 .1 -2.3-3.6M510.2 830l.3 4.7 -2.5-.3 -.6-2.9M530 842.6l2.6 2.2 1.6-1.7 2.8 .7 1.3-2.2 -.5-.9 -3.4 .4 -1.2-1.6 1.3-2.9 3.1 0 .7 .4 -.5 3.7M530 842.6l1.3-2.6 -2.5-2.6 -2.5 .9 -2.1-1 -1.2 .8 -4-3.9 3.3-2.5 .2 .2 5.2-2.5 -.4-2M530 842.6l-2.2 .3 -.6 1.5 -4.2 .4 -.4-.9 1.2-1.7 3.3-.3 .7 1M485.6 863.6l-2.4-1.6 -.1 .1M489.4 863.2l-1.2-2.7 -3.2-.7 .3-2.8 4.6-.6 0 .9 -1.7 3.2M484.3 855.8l1 1.2M484.3 855.8l-3.3 3 2.3 2.4 -.1 .8M484.3 855.8l-.3-1 2.5-3.2 .9 .4 2.7 3.9 2.4-.8M494.5 827.9l1.9 3.6M558.5 853.6l-3.2 2.8 3.3 2.4M558.5 853.6l1.5 .4M558.5 853.6l-1.5-1.6 2.6-3.8 -4.9 .3 -.6 .4 1.6 2.8 1.3 .3M555.3 856.4l-1.4-.2 -.9 1.5M559 858.8l2-2.7M545.5 847.8l.6-1.9 -1.3-2.1 -2.7-1.3 -.5 .4 -.5 2.3 4.4 2.6 0 .3M553.9 856.2l-.5-1.5 -1.7-1.1 -2.6 1.2 -.2 2.5M534.6 862l3.8 1.5M535.8 858.5l1.9 .1M540.7 854.1l-.2 .2 -3.2-1.3M544.1 857.7l-2.6 1.1M506.1 874l-.7 .6M492.6 860.3l-2.7-3M490.1 855.9l-.2 .5M514.7 863.5l.4-4 -4.5 1.5 -.4 .6 .1 .4M515.1 859.5l.4-.9M506.4 866.9l2.8-1.9M504.8 864.8l5.1-3.3 .3 .1M545.5 865.9l-4.8-.7 -1.2 4.1M540.7 865.2l-.5-.5M544 871.9l3.4-1 -1.9-4.3M560.1 962.9l3.3-.5 -.1-2.2 4.1-1.3 .4 .4M487.7 919.6l-2.8-1.2 3.4-3.8 1.1-.5 1.6 2.2 -3.3 3.3 2.2 2.2M489.7 923l-2.7 .2M480.3 907.6l2 4.4 -2.9 1 -1.5 1.7 5.7 1.4 -.1-3.7 -1.2-.4M478.2 908.3l-.1 .4 -2.7 4M478.1 908.7l1.3 4.3M507 879.3l-1.5-3.8M503.2 880.3l-.3-.9M470 931.3l.8-.3 2 3.2 -3.4-.6M487.1 952.8l-1.5-.3M484.7 951.6l1.9-3.7 2-.3M484.4 925.7l-.8-.9M489.8 929.1l-4 1.2 -1.3-1.4M481.3 929.4l-.4 1.8 3.8 .9 -1.5 2.7 -3.2 .8 -1.4-2.2 2.3-2.2M485.8 930.3l-.7 1.6 3.5 3.9 .9-.1M514.5 953.5l-5.5-2M510.3 949.7l-1.3 1.6M500.4 956.9l4.1-2.7M498.7 947.1l4.8-.6M498.6 947l.2-1.1M505.4 941.6l.1 1.7M503.8 945.6l-3.1-1.7M505 948.7l.5 1M471.8 919.1l1.5-1.5M466.9 914.4l5.3 .8M466.6 914.7l0 0M477.5 915.9l6.5 3.1M477.8 914.8l.1-.1M467 905.4l-.1-.9M471.9 904.6l-4.4-.6M473.5 907.6l.3-.4M566.1 950.9l-2.6 .8 -.3-.2 -1.6-3.5 .7-1.2M567.2 949.3l-.9-1.5M561.5 944l-4.4-.5M561.6 948l-3.1 .3 -2 2.7 3 1.8 .3 3.2 -2.9 .8 -1.1-5.5 .7-.3M563.5 951.7l.3 3.5 .7 .3 2.3-1.3M563.2 951.5l-3.7 1.3M461.4 872l-.9 3.3M481 858.8l-.8-.3 -1.8 4.1 .2 .7M483.3 861.2l1.7-1.4M474.9 859.6l3.5 3M475.1 859.1l3.6-1.4 -3.4-4.4 2.1-1 2.3 .2 .8 1.5 -1.2 3.6 -.6 .1M480.2 858.5l-.9-.9M515.5 893.9l.5 1.5M517.9 891.5l-1.7 .1M517.9 891.5l2.1-2.5 -3.1-2.2M517.9 891.5l3 1.8 .8-2.5 -1.6-1.8 -.1 0M509.3 920.1l-.6-1.8M507.9 922.4l-2.1-.4 -2.4 3.8 -3.1-2.4 -.7-.2 -1 4.3 2.1 1 2.7-2.3 0-.4M505.8 922l-.8-.6 -4.7 2M509.2 926.4l-5.6-.1 1.5 3M489.4 914.1l1-3.4 -.2-.2M491 916.3l1 .5M485.7 909.9l-2.5-3.3M485.7 909.9l-2 2.4 -.2 .1M485.7 909.9l.5-.1M486 904.1l1.2 .5M488.3 914.6l-4.6-2.3M484.5 918.5l.4-.1M484.5 918.5l-.5 .5M484.5 918.5l-.9-2.4M496.1 921.7l.5-.2M492.2 939.5l-.3 4.5 -3.7-2.9 2.4-3.7 1.6 1.7M528.5 889.3l-.6 .4 -2.8 3.6 -1.6-3 4.4-.6M514.4 833.6l-2 1.8 -1.9-.7M489.9 844.3l-3.1 1.8 -1.6-1.3M489.9 844.3l-.2-3.9 -1.4-.9 -1.9 1M489.9 844.3l2.3 1.3 -.8 3.1 -4.5-1.3 -.1-1.3M489.7 840.4l1.4-.2 1.2-2.3 4.1-.5 .6 1 -1 2.2 3.6 3.8 .8-.9 1.1-3.6 -.3-.9 -2-.8 -2.2 .2M488.3 839.5l-.1-1.3 -1.1-2.7M488.2 838.2l3.8-2.4 .3 2.1M494.1 852.8l-.8-1.8 -1.6-1 -4.3 2M498.7 851.6l.1-.3 3.4-3.1 2.5 2.8 -2.3 2.5M504.3 830.7l-.7 .8 2.7 4.3 1.7-1.4M503.6 831.5l-2.5 1.2M501.2 839l2.9-2.3 -3-3.7M504.1 836.7l1.7-.1 .5-.8M542.1 842.5l1.1-2.5 4.2 1.4 -2.6 2.4M541.1 845.2l-2 1.9 -1.6-.9 -.5-2.4M541.6 842.9l-3.3-1.3M475 853.3l.3 0M473 852l2.3-4.2 1.2 .3 .9 4.2M568.7 847.9l-1.1-.2 -2.5 1.5M568.7 841.7l-2.6 2.1 1.5 3.9M549.1 854.8l-.5-.4 -3.5-.7M540.5 854.3l.1 4.1M517.8 851.5l-2.7 .8 .2 1M517.8 851.5l1.1 5M517.8 851.5l2.1-.9 1.9 2 .2 1.6 -2.2 3.3M547.4 870.9l1.6 1.1 -.7 2M568.3 956.4l-1.1 1.7 -2.7-2.6M559.1 962.3l-.1-1.5 -3.2-2.7 -.4 .2 -.5 1.9M559 960.8l2.8-2 -.1-2 2.1-1.6M555 951.5l.7-.2 .1 0M553.3 957.5l2.1 .8M555.8 958.1l1.1-1.3M499.8 878.2l2.8 .8M500.1 875l1.6-.4M472.8 934.2l1.5 .4 1.7-1.8M471.6 930.5l-.8 .5M483.5 951.7l-2.1-2.3 -2.6 .7M469.6 937.3l3.2 0 .1 .5 2.4 3.9 -1.4 1.5M558.5 948.3l-2-3.8M555.7 951.3l-2.4-4.4 -2.2 0M505 921.4l-1.4-2.6M499.5 923.1l.1 .1M502.5 917.9l.4-.1M494.8 913.5l-1-1.7M490.4 910.7l.7 .1M495.7 905l-.3 1.5M494.1 903.7l-3.8 2.9M503.6 926.3l-.2-.1M497.9 927.7l.7-.2M495.5 930.5l1 3 2.3-.8M501.1 929.6l-.4-1.1M496.5 933.5l-.1 .4 .2 .6M490.6 937.4l-.6-1.3M496.4 933.9l-2.4 .6M486.6 947.9l-1.4-1.3 .5-3.6 4.5 2.2M523.9 885.2l-.6 5 -1.6 .6M523.4 885.1l-3.3 3.9M529.3 893.8l-4.5 1.6 -.6 .7 1.8 2M530.3 897.5l1-.8M523.3 890.2l.2 .1M520.9 893.3l.3 1.7M523.4 896.2l.8-.1M524.8 895.4l.3-2.1M527.8 829.5l-.3 3.8 1.7 .9 .6-.3 .6-3.6 -2.6-.8 -.1-.1M522.8 838.3l-.5 .2 -2.2 4 -1.3 .3 -.9-3.5 1.7-1.3 2.7 .5M522.8 838.3l.2-.2M522.8 838.3l1 3.9M519 827.3l-.4 1.4 -1.3 .4M519 827.3l2.3-1.8 2.4 1.8 -1.6 4 .2 .4M519 827.3l-2.3-4.1M518.6 828.7l3.5 2.6M519 834.2l-1.3 .5 -.4-.1 -2.2-1.1M491.1 840.2l3.8 1 1.1-.6M501.5 839.9l3.5 1.9 -.7 1.4 -3.9 .3M507.3 847.8l-1.4-1.7 -1.2-.3 -2.5 1.6 -2.6-2.5 0-.5M507.3 847.8l0 3.2 -2.6 0M507.3 847.8l1.9-1.1 3.2 2.7 -.1 1.6 -1.8 .9 .3 4.3 1 .9 -1.2 3.9M494.9 841.2l-1.1 4 -1.6 .4M508.7 827.5l4-1 -.2 2.7M546.1 845.9l3.6-2.3 -1.8-2.2 -.5 0M532.6 844.8l.1 .8 3 .9 -1.2 4.9 -3.6-2.6 1.8-3.2M534.2 843.1l.2-2M541.9 829.5l-1.1 2 1 3.3 4.2-2.4M541.8 834.8l-.3 1.7 1.4 1.3 4.6-1.1 -.8-4.1M541.5 836.5l-3.2 .5M540.8 831.5l-3.1 .1 .3-3M530.4 830.3l3-.7 .7 1.4 3.1 .9 .5-.3M533.2 834.3l-3.4-.4M533.2 834.3l.6 1.6 -4.9 1.4 .3-3.1M533.2 834.3l.9-3.3M561.9 848.5l-.9-1 -.1-.5 -5-2.3 -.2-.5 -4.8 .2 -.5-.5 2.5-3.7 2.2-.5 1.1 2.8 -.5 1.7M566.1 843.8l-2.9-.5 -.5 .1 -1.1 1.6 -.7 2M548.6 854.4l0-2.8M544.9 853.4l.2-1.1M553.4 854.7l2.3-3M551.7 853.6l-1-3.8M551.5 848.7l-.8 .7M551.5 848.7l-.6-4.3M551.5 848.7l2.6 .2M522 854.2l3.4 1.1M515.1 852.3l-.7-.5 -2.1-.8M510.5 851.9l-2.6-.4 -2 5M511.8 857.1l2.2 0M510.8 856.2l-3 1.1M509.9 861.5l-1-.6M503 857l.4 .4M507.3 851l.6 .5M518.4 846.9l1.5 1.4 0 2.3M518.4 846.9l-1.5 .8 -2.5 4.1M518.4 846.9l-.9-2.9 -2-.4 -2.4 2.7 0 1.3 3.8 .1M517.5 844l1.3-1.2M548.9 867.8l1.8 1.5M552.1 864.1l1.3 3.2M549 872l1.2-.8M549.7 877.4l-1.1-.7M553.5 875l.4-1.9M561.8 958.8l1.5 1.4M561.7 956.8l-1.9-.8M567.2 958.1l.2 .8M481.4 949.4l.3-3.1 3.5 .3M472.8 937.3l1-1 3.9 2.6 -.2 1.3 -1 1 -1.2 .5M553.3 946.9l2.2-2.1M550.6 944.1l2.1-1.2M488.2 941.1l-3.2 0 .7 1.9M491.9 944.1l0-.1M476.5 941.2l2.6 3.3 -4.3 1.8M477.5 940.2l2.3 .7 3.7-.7 .8 .4 -3.4 4.8 -.5-.4 -.6-4.1M524.2 837.3l-.1-3 3.4-1M524.1 834.3l-1.6-2.4M526.3 838.3l.8 3.6M516.4 838.9l1.5 .4M516.4 838.9l.9-4.3M516.4 838.9l-2.7 .8 0 1.4 1.8 2.5M517.7 834.7l1.9 3.3M521.3 825.5l.3-2.2M516.7 828.7l-.8-.9 -3.2-1.4 0 .1M523.7 827.3l2.7-1M481.5 844.8l-.2 .2 2 3.2 .1 2.1 -2.7 .5 -1-4 .8-1.6 .8-.2M486.9 847.4l0 0 -.5 3.9 .1 .3M486.9 847.4l-3.6 .8M484 854.8l-3.5-.8M486.4 851.3l-3-1M499.2 838.2l1.6-4.9M492 835.8l.7-1.7M496.4 837.4l-.8-2.5M493.5 833.7l1.3 .2M512.4 835.4l0 2.5 1.3 1.8M505.8 836.6l.3 .7 4.3 1.4 -2.3 3.2 -1.7-.8 -.3-3.8M493.8 845.2l.5 .3 4 .2 -.8 3 -2.3-.2 -.9-3M491.4 848.7l.3 1.3M493.3 851l1.9-2.5M499.6 844.9l-1.3 .8M498.8 851.3l-1.3-2.6M502.2 848.2l0-.8M551 835.7l-.5-1.8 -2.4-2.4M551 835.7l-1.6 1.5 -.6 .1 -1.3-.6M551 835.7l3.5-.6 1.6 3 -1 1.6M543.2 840l-.3-2.2M533.8 835.9l.7 .7M531.3 840l1.9-.5M528.8 837.4l.1-.1M537.6 836.6l-.4-4.7M537.5 846.2l-1.8 .3M539.3 848.4l-.2-1.3M535.2 852.2l-.7-.8M533.7 828l-.3 1.6M479.7 852.5l1-1.7M555.9 844.7l-1.2 3.8M561 847.5l-1.4 .7M547.9 841.4l.9-4.1M549.7 843.6l.7 .3M549.4 837.2l3.5 3M558 842.5l3.6 2.5M558 842.5l-1.8 0M558 842.5l2.6-2.9 2.1 3.8M529.8 853.8l.8-4.9 .3-.1M527.2 853.1l-.3-1 3.2-3.3 .5 .1M521.8 852.6l2.9-1.8 2.2 1.3M519.9 848.3l2.7-1.5 2.6 1.6 -.5 2.4M563.4 962.4l1.3 1.7M485.1 931.9l-.4 .2M488.6 935.8l-2.2 1.2 -2 3.6 .6 .5M486.4 937l-3.2-2.2M472.9 937.8l-1.9 4.4M477.7 938.9l2.3-3.2 0-.1M480 935.7l3.5 4.5M476.9 932.7l1.7 .7M474.3 934.6l-.5 1.7M484.4 940.6l-.1 0M481.7 946.3l-.8-.9 -4.4 3.4M479.1 944.5l1.3 .5M480.9 945.4l0 0M520.1 842.5l2.5 1.4M477.8 843.1l2.7 2.1M476.5 848.1l3.2-1.3M474.5 846.9l.8 .9M505 841.8l1.4-.7M504.3 843.2l.4 2.6M505.9 846.1l2.9-3.1 .2 .1 .9 2 2.8 1 -1.4-3.6 -2.3 .6M513.1 846.3l-.4-.2M513.1 847.6l-.7 1.8M509.2 846.7l.7-1.6M513.7 841.1l-2.4 1.4M512.4 837.9l-2 .8M508.8 843l-.7-1.1M515.9 827.8l-.3-4.4M512.7 826.4l.2-3.2M550.5 833.9l2.4-3.2M563.2 843.3l2.1-3.9M560.6 839.6l0-.4 1.8-2M530.1 848.8l-2.4-1.5 -2.5 1.1M522.6 846.8l.4-2M527.7 847.3l-.5-2.9M554.5 835.1l.2-.8 0-1.1M556.1 838.1l.7 0 3.8 1.1M554.7 834.3l4.9 0 -2.8 3.8M559.6 834.3l1.8-1.3"/>
</g>
<g fill="none" stroke="#222" stroke-width="1.25">
<rect x="27.8" y="629" width="172.4" height="171.7"/>
<rect x="27.8" y="811.2" width="172.4" height="171.2"/>
<rect x="232.5" y="629" width="172" height="171.7"/>
<rect x="232.5" y="811.2" width="172" height="171.2"/>
<rect x="436.6" y="629" width="172.6" height="171.7"/>
<rect x="436.6" y="811.2" width="172.6" height="171.2"/>
</g>
<text x="196.3" y="798.7" font-size="10.7" text-anchor="end" textLength="65" lengthAdjust="spacingAndGlyphs">50,000 MCS</text>
<text x="196.3" y="980.6" font-size="10.7" text-anchor="end" textLength="65" lengthAdjust="spacingAndGlyphs">50,000 MCS</text>
<text x="402" y="798.7" font-size="10.7" text-anchor="end" textLength="65" lengthAdjust="spacingAndGlyphs">50,000 MCS</text>
<text x="402" y="980.6" font-size="10.7" text-anchor="end" textLength="65" lengthAdjust="spacingAndGlyphs">50,000 MCS</text>
<text x="606.1" y="798.7" font-size="10.7" text-anchor="end" textLength="65" lengthAdjust="spacingAndGlyphs">50,000 MCS</text>
<text x="606.1" y="980.6" font-size="10.7" text-anchor="end" textLength="65" lengthAdjust="spacingAndGlyphs">50,000 MCS</text>
<text x="0" y="7.6" font-size="16" font-weight="bold" class="pl" fill="#000" transform="scale(1.1 1)">a</text>
<text x="0" y="204.2" font-size="16" font-weight="bold" class="pl" fill="#000" transform="scale(1.1 1)">b</text>
<text x="0" y="411.8" font-size="16" font-weight="bold" class="pl" fill="#000" transform="scale(1.1 1)">c</text>
<text x="0" y="637.9" font-size="16" font-weight="bold" class="pl" fill="#000" transform="scale(1.1 1)">d</text>
<text x="20.7" y="88.6" font-size="11" text-anchor="middle" textLength="51.2" lengthAdjust="spacingAndGlyphs" transform="rotate(-90 20.7 88.6)">Cell types</text>
<text x="20.7" y="281" font-size="11" text-anchor="middle" textLength="79.7" lengthAdjust="spacingAndGlyphs" transform="rotate(-90 20.7 281)">Boundary cells</text>
<text x="8.2" y="485.2" font-size="11" text-anchor="middle" textLength="64" lengthAdjust="spacingAndGlyphs" transform="rotate(-90 8.2 485.2)">Tension (a.u)</text>
<text x="20.7" y="715.1" font-size="11" text-anchor="middle" textLength="108.9" lengthAdjust="spacingAndGlyphs" transform="rotate(-90 20.7 715.1)">Boundary simulations</text>
<text x="20.7" y="895.3" font-size="11" text-anchor="middle" textLength="37.3" lengthAdjust="spacingAndGlyphs" transform="rotate(-90 20.7 895.3)">Control</text>
</svg>
</body></html>
